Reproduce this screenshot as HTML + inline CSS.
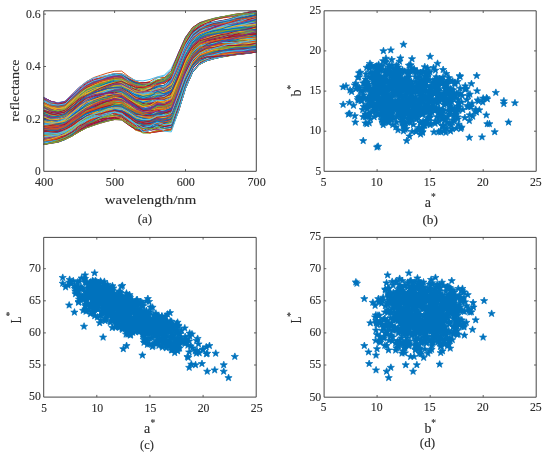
<!DOCTYPE html>
<html lang="en"><head><meta charset="utf-8"><title>Figure</title>
<style>html,body{margin:0;padding:0;background:#fff}svg{display:block}</style></head>
<body>
<svg width="550" height="456" viewBox="0 0 550 456" font-family='"Liberation Serif", "DejaVu Serif", serif' fill="#2b2b2b" stroke="#2b2b2b" stroke-width="0.12">
<rect width="550" height="456" fill="#fff" stroke="none"/>
<g fill="none" stroke-width="1" stroke-linejoin="round">
<path stroke="#0072BD" d="M43.8 108.6l7.1 3.4l7.1 1.8l7-0.5l7.1-4.8l7.1-5.3l7.1-2.1l7.1-3.3l7.1-1.6l7.1-0.6l7-0.7l7.1 1.2l7.1 5.9l7.1 5.8l7.1 3.7l7 0.8l7.1-1.2l7.1 0.2l7.1-2l7.1-16.4l7.1-20.4l7.1-13.4l7-6.4l7.1-2.6l7.1-1.9l7.1-1.6l7.1-1.8l7-0.8l7.1-0.7l7.1-1.4l7.1-1"/>
<path stroke="#D95319" d="M43.8 136.7l7.1-0.3l7.1-1.5l7-2.8l7.1-3.6l7.1-4.6l7.1-4.6l7.1-3.1l7.1-2.3l7.1-1.8l7-1.2l7.1-0.4l7.1 6.1l7.1 4.8l7.1 1l7 1.2l7.1 0.2l7.1-2.9l7.1-2.4l7.1-17.1l7.1-21l7.1-14.4l7-6.4l7.1-3.2l7.1-1.2l7.1-1.4l7.1-0.6l7-1.8l7.1-0.4l7.1-0.9l7.1 0.4"/>
<path stroke="#EDB120" d="M43.8 128.7l7.1 0.3l7.1-1.7l7-3.4l7.1-7.1l7.1-7.4l7.1-6.1l7.1-5.4l7.1-2.6l7.1-5.3l7-3.5l7.1-1l7.1 2.3l7.1 1.5l7.1-0.3l7-2.6l7.1-3.5l7.1-3.5l7.1-6.2l7.1-17.7l7.1-17l7.1-10.6l7-5.2l7.1-2.5l7.1-1.7l7.1-1.4l7.1-1.3l7-1.3l7.1-0.7l7.1-1.2l7.1-1.5"/>
<path stroke="#7E2F8E" d="M43.8 144.5l7.1-1.2l7.1-1.2l7-2.7l7.1-4.2l7.1-3.7l7.1-3.9l7.1-2.6l7.1-2.7l7.1-2.8l7-2l7.1-0.5l7.1 4.6l7.1 4.4l7.1 1.7l7-0.2l7.1-2.6l7.1-2.4l7.1-3.2l7.1-18.8l7.1-22.5l7.1-15.7l7-8.2l7.1-4.7l7.1-2.2l7.1-2.5l7.1-1.3l7-2.1l7.1-1.7l7.1-2.7l7.1-2.2"/>
<path stroke="#77AC30" d="M43.8 123.4l7.1 0.2l7.1 0l7-1.5l7.1-5.6l7.1-5.5l7.1-5.3l7.1-5.2l7.1-1.9l7.1-3l7-2.1l7.1-1l7.1 5.1l7.1 3.6l7.1-0.2l7 0.9l7.1-1.2l7.1-3.1l7.1-5.2l7.1-16.7l7.1-18.1l7.1-12.2l7-6.3l7.1-2.4l7.1-2.1l7.1-1.2l7.1-3l7-0.1l7.1-0.7l7.1-1.4l7.1 0"/>
<path stroke="#4DBEEE" d="M43.8 122.7l7.1 1.5l7.1 0.5l7-1.8l7.1-3.8l7.1-4.7l7.1-4.3l7.1-2.6l7.1 0l7.1-2.3l7-1.1l7.1 1.3l7.1 4.4l7.1 5.9l7.1 3.6l7-1.3l7.1-1.8l7.1 1.4l7.1-0.1l7.1-20l7.1-20.9l7.1-14.1l7-5.8l7.1-3.1l7.1-1.1l7.1-2.2l7.1-0.5l7-1.1l7.1-0.8l7.1-0.6l7.1-1.9"/>
<path stroke="#A2142F" d="M43.8 121.4l7.1 2.3l7.1-0.7l7-0.3l7.1-4.9l7.1-4.8l7.1-4.5l7.1-2.9l7.1-1.6l7.1-2.3l7-1.3l7.1 0.7l7.1 5.5l7.1 4.8l7.1 3.4l7-0.3l7.1-1l7.1 0.2l7.1-0.7l7.1-17.8l7.1-21l7.1-13.1l7-6.8l7.1-2l7.1-1.8l7.1 0l7.1-1.4l7-0.1l7.1-0.1l7.1 0.6l7.1-1.7"/>
<path stroke="#0072BD" d="M43.8 124.3l7.1 0.7l7.1-0.6l7-1.8l7.1-5.9l7.1-5.2l7.1-6.1l7.1-2.2l7.1-2.5l7.1-3.2l7-1.2l7.1-0.2l7.1 5.2l7.1 4.2l7.1 4.7l7-1.5l7.1-4.1l7.1 0.8l7.1-1.9l7.1-20l7.1-20.6l7.1-13.1l7-7.1l7.1-3.2l7.1-1.5l7.1-3.9l7.1-1.5l7-1.9l7.1-1.7l7.1-1.2l7.1-1.3"/>
<path stroke="#D95319" d="M43.8 129.8l7.1 1.3l7.1-0.6l7-2l7.1-3.2l7.1-5.7l7.1-3.8l7.1-3.6l7.1-2.5l7.1-1.3l7-2l7.1 0.7l7.1 4.4l7.1 4.4l7.1 1.7l7 1.6l7.1 0.3l7.1-2.1l7.1-2.4l7.1-17.2l7.1-21.4l7.1-14.8l7-7.5l7.1-2.8l7.1-1.8l7.1-1.6l7.1-1.2l7-0.6l7.1-1.4l7.1-1.4l7.1-0.3"/>
<path stroke="#EDB120" d="M43.8 129l7.1 0l7.1 0.1l7-1.6l7.1-3.8l7.1-3.9l7.1-4.7l7.1-2.9l7.1-2l7.1-1.4l7-1.7l7.1 0.2l7.1 5.2l7.1 5.3l7.1 4.9l7-1.5l7.1-4.7l7.1 0.7l7.1-0.5l7.1-19.3l7.1-21.4l7.1-14.6l7-6.4l7.1-3.1l7.1-2.4l7.1-0.9l7.1-0.8l7-1.6l7.1-0.8l7.1-0.5l7.1-1.4"/>
<path stroke="#7E2F8E" d="M43.8 120.1l7.1 1.7l7.1 0.1l7-1.9l7.1-5.4l7.1-5.9l7.1-4.9l7.1-3.3l7.1-2.6l7.1-1.1l7-2.3l7.1 0.9l7.1 4.4l7.1 3.7l7.1 0.4l7 0.9l7.1-0.2l7.1-1.8l7.1-3.9l7.1-17l7.1-19.9l7.1-14l7-5.8l7.1-2.7l7.1-2.2l7.1-1.1l7.1-1.2l7-1.8l7.1-0.9l7.1-1.1l7.1-1.2"/>
<path stroke="#77AC30" d="M43.8 134.7l7.1-1.4l7.1-1l7-2.5l7.1-5.5l7.1-5.2l7.1-4.7l7.1-3.5l7.1-3l7.1-2l7-0.6l7.1 0.3l7.1 5.2l7.1 4.8l7.1 2.2l7 0.1l7.1-1.5l7.1-0.9l7.1-2.2l7.1-16.9l7.1-21.6l7.1-14.9l7-6.7l7.1-3.7l7.1-2.4l7.1-2l7.1-0.6l7-1.2l7.1-1.2l7.1-1.3l7.1-1.7"/>
<path stroke="#4DBEEE" d="M43.8 122.1l7.1 0.8l7.1-1.3l7-1.9l7.1-5.7l7.1-6.2l7.1-6l7.1-3.4l7.1-3.6l7.1-3.5l7-2.6l7.1-1.3l7.1 3.4l7.1 3.8l7.1-0.4l7-2.8l7.1-4.7l7.1-1.1l7.1-5.7l7.1-19.3l7.1-18.2l7.1-11.2l7-6l7.1-3.8l7.1-2.8l7.1-1.7l7.1-0.9l7-1.2l7.1-1l7.1-1.2l7.1-1.2"/>
<path stroke="#A2142F" d="M43.8 124.1l7.1 0.5l7.1-0.1l7-1.8l7.1-4.9l7.1-5.2l7.1-6.6l7.1-3.8l7.1-3.7l7.1-2.3l7-2.9l7.1-1.1l7.1 3.8l7.1 2.2l7.1 0.1l7-2.1l7.1-2.3l7.1-3.3l7.1-6.9l7.1-17.8l7.1-18.7l7.1-11.4l7-5.6l7.1-3.9l7.1-2.1l7.1-2l7.1-2l7-3l7.1-1.8l7.1-1.6l7.1-2"/>
<path stroke="#0072BD" d="M43.8 134.8l7.1-0.5l7.1-0.4l7-3.2l7.1-5.2l7.1-4.5l7.1-5.1l7.1-3.2l7.1-2.6l7.1-1.9l7-1.8l7.1 0.6l7.1 5.7l7.1 4.6l7.1 2l7 0l7.1-1l7.1 1.4l7.1-2.5l7.1-15.7l7.1-21.2l7.1-13.8l7-7.9l7.1-2.7l7.1-0.8l7.1-1.2l7.1-1.4l7 0l7.1 0l7.1-1.3l7.1-0.8"/>
<path stroke="#D95319" d="M43.8 125.5l7.1 1.1l7.1 0l7-2.1l7.1-5l7.1-6l7.1-4.3l7.1-3l7.1-1.4l7.1-1.5l7-2.1l7.1-0.9l7.1 4.6l7.1 5.2l7.1 1.5l7-0.2l7.1-2.5l7.1-1.2l7.1-2.1l7.1-18.2l7.1-21.2l7.1-14.1l7-7.1l7.1-3.1l7.1-2.8l7.1-2.7l7.1-2.2l7-1.7l7.1-1.2l7.1-2.2l7.1-1.3"/>
<path stroke="#EDB120" d="M43.8 98.3l7.1 3.8l7.1 2.4l7-1.3l7.1-6.2l7.1-7.2l7.1-5.2l7.1-3.1l7.1-2.7l7.1-2.8l7-1.6l7.1 0.6l7.1 3.7l7.1 4l7.1 2.6l7-0.7l7.1-1.1l7.1-0.8l7.1-4.1l7.1-14.8l7.1-15.7l7.1-10.7l7-5l7.1-2.9l7.1-1.9l7.1 0.2l7.1-1.5l7-1.3l7.1-1.3l7.1-0.8l7.1-0.8"/>
<path stroke="#7E2F8E" d="M43.8 123.6l7.1 1.1l7.1 0l7-2.6l7.1-4.3l7.1-4.8l7.1-5.1l7.1-3.1l7.1-1.6l7.1-1.8l7-1.5l7.1-0.5l7.1 5.2l7.1 4.1l7.1 2.8l7-0.4l7.1-1.9l7.1-0.1l7.1-2.5l7.1-17.1l7.1-19.5l7.1-12.4l7-6.8l7.1-2.8l7.1-1.7l7.1-1.5l7.1-0.6l7-0.9l7.1-0.8l7.1-0.6l7.1-0.6"/>
<path stroke="#77AC30" d="M43.8 130.6l7.1 0.4l7.1-1.1l7-2.6l7.1-4.5l7.1-5.3l7.1-4.9l7.1-3.1l7.1-3.1l7.1-3.2l7-1.4l7.1-1.4l7.1 6.1l7.1 3.2l7.1 1.7l7-1.2l7.1-1.5l7.1-2.9l7.1-3.4l7.1-16.8l7.1-20.5l7.1-14.2l7-6.7l7.1-4.2l7.1-2.2l7.1-2.5l7.1-1.9l7-1l7.1-1.5l7.1-1.5l7.1-1.5"/>
<path stroke="#4DBEEE" d="M43.8 130.5l7.1 0.2l7.1-1l7-1.7l7.1-5l7.1-4.9l7.1-4.8l7.1-2.8l7.1-3.9l7.1-2.1l7-2.2l7.1-0.4l7.1 3.7l7.1 4l7.1-0.3l7 1l7.1-0.8l7.1-1.8l7.1-4.4l7.1-15.5l7.1-20.9l7.1-13.7l7-6.3l7.1-3.5l7.1-1.1l7.1-1.3l7.1-1.5l7-0.1l7.1-0.4l7.1-1.1l7.1-0.9"/>
<path stroke="#A2142F" d="M43.8 98.7l7.1 3.4l7.1 3.3l7-2.3l7.1-5.9l7.1-5.7l7.1-5.8l7.1-2.3l7.1-3.5l7.1-2.2l7-1.4l7.1 0.7l7.1 3.3l7.1 6l7.1 3.1l7 0l7.1-2.4l7.1 0.8l7.1-4l7.1-16.9l7.1-16.5l7.1-10.8l7-5.5l7.1-2l7.1-1.7l7.1-0.9l7.1-0.6l7-1.3l7.1 0l7.1-0.5l7.1 0.1"/>
<path stroke="#0072BD" d="M43.8 117l7.1 2.3l7.1 0l7-1.3l7.1-5.7l7.1-5.5l7.1-5.6l7.1-2.6l7.1-2.9l7.1-2.3l7-1.5l7.1-0.2l7.1 4.9l7.1 4.7l7.1 1.7l7-0.3l7.1-2.7l7.1 0.7l7.1-3.3l7.1-15.9l7.1-19.4l7.1-12.6l7-6.3l7.1-2.4l7.1-2.8l7.1-1.3l7.1-1l7 0l7.1-2l7.1 0.2l7.1-1.4"/>
<path stroke="#D95319" d="M43.8 108.9l7.1 2.5l7.1 0.9l7-1.7l7.1-5.5l7.1-7.6l7.1-5.4l7.1-2.8l7.1-2l7.1-1.3l7-1.3l7.1 1.2l7.1 4.9l7.1 5.5l7.1 1.8l7 0.3l7.1-1l7.1-0.5l7.1-3.8l7.1-16.5l7.1-18.2l7.1-11.9l7-6.7l7.1-2.6l7.1-2.1l7.1-1.3l7.1-1.5l7-1l7.1-0.5l7.1-1.5l7.1-0.1"/>
<path stroke="#EDB120" d="M43.8 118.2l7.1 1.8l7.1 0.4l7-2.7l7.1-4.2l7.1-6.1l7.1-6.2l7.1-3.2l7.1-2.7l7.1-2.3l7-2.5l7.1-0.9l7.1 3.7l7.1 4.7l7.1 1.6l7-1.2l7.1-3.9l7.1-1.6l7.1-4l7.1-18.8l7.1-18.1l7.1-12.4l7-5.4l7.1-2.4l7.1-0.9l7.1-1.3l7.1-0.9l7 0l7.1-0.6l7.1-0.6l7.1-0.2"/>
<path stroke="#7E2F8E" d="M43.8 97.4l7.1 4.1l7.1 1.4l7-1.5l7.1-7l7.1-7.2l7.1-5l7.1-3.1l7.1-0.7l7.1-0.9l7-0.6l7.1 0.6l7.1 5.8l7.1 5.5l7.1 3.7l7-0.9l7.1-3.5l7.1 2.1l7.1-2.9l7.1-17.6l7.1-16.9l7.1-11.1l7-4.7l7.1-3.5l7.1-2.9l7.1-1l7.1-1.6l7-1l7.1-1.8l7.1-1.1l7.1-1.7"/>
<path stroke="#77AC30" d="M43.8 99.8l7.1 3.4l7.1 1.6l7-0.7l7.1-5.8l7.1-6.4l7.1-6.3l7.1-3.4l7.1-2.2l7.1-2.1l7-1.8l7.1 0.5l7.1 4.6l7.1 4l7.1 2.1l7-1.5l7.1-3.1l7.1-1.8l7.1-4.5l7.1-16.9l7.1-17.2l7.1-10.1l7-4.6l7.1-2.6l7.1-1.5l7.1-1.6l7.1-1.8l7-0.9l7.1-1.6l7.1-1.9l7.1 0.3"/>
<path stroke="#4DBEEE" d="M43.8 108.1l7.1 3.6l7.1 0.5l7-1.1l7.1-5.5l7.1-5.8l7.1-4l7.1-2.9l7.1-1.9l7.1-0.8l7-0.5l7.1 1.9l7.1 5l7.1 4.4l7.1 5.6l7-2.2l7.1-3l7.1 3.1l7.1-0.5l7.1-18.1l7.1-20.6l7.1-13.4l7-5.2l7.1-2.8l7.1-1l7.1-1.7l7.1-0.6l7-0.3l7.1-0.5l7.1 0.1l7.1-0.5"/>
<path stroke="#A2142F" d="M43.8 126.6l7.1 0.1l7.1 0.1l7-1.8l7.1-4.9l7.1-5.4l7.1-5.3l7.1-3.2l7.1-2.8l7.1-2.7l7-1.7l7.1-0.9l7.1 3.3l7.1 4.6l7.1 1.5l7-0.4l7.1-3.1l7.1-1.3l7.1-4l7.1-17.8l7.1-19.1l7.1-13.4l7-6.2l7.1-3.3l7.1-1.8l7.1-2l7.1-1.1l7-1.4l7.1-1.7l7.1-1.4l7.1-1.1"/>
<path stroke="#0072BD" d="M43.8 119.4l7.1 1l7.1 0l7-2.7l7.1-5.3l7.1-5.5l7.1-5.5l7.1-2.4l7.1-3.2l7.1-0.8l7-2.6l7.1 0.3l7.1 3.6l7.1 5.2l7.1 1.7l7-0.1l7.1-1.9l7.1-0.7l7.1-2.4l7.1-17.1l7.1-19.6l7.1-13l7-5.5l7.1-2.6l7.1-2.6l7.1-0.5l7.1-2.4l7-0.7l7.1-2l7.1-0.9l7.1-1.1"/>
<path stroke="#D95319" d="M43.8 144.1l7.1-1l7.1-0.8l7-2.9l7.1-3.7l7.1-3.9l7.1-4.2l7.1-5.4l7.1-4.5l7.1-3.7l7-3.3l7.1-1.3l7.1 2.7l7.1 4l7.1 0.6l7-2.5l7.1-4.7l7.1-2.2l7.1-4.7l7.1-19.2l7.1-21.5l7.1-13.6l7-8.2l7.1-3.4l7.1-2.8l7.1-3l7.1-3l7-1.3l7.1-3l7.1-1.5l7.1-2.7"/>
<path stroke="#EDB120" d="M43.8 134.7l7.1-1.5l7.1-0.6l7-3.6l7.1-4.2l7.1-6.2l7.1-5l7.1-4l7.1-3.8l7.1-4l7-3l7.1-0.9l7.1 3.3l7.1 2.5l7.1 0.4l7-1.5l7.1-1.9l7.1-1.9l7.1-5.7l7.1-17.8l7.1-19.1l7.1-12.7l7-7l7.1-2.7l7.1-2.2l7.1-1.3l7.1-2.6l7-1.3l7.1-0.7l7.1-1.4l7.1-2.9"/>
<path stroke="#7E2F8E" d="M43.8 124.7l7.1 2.7l7.1 0.9l7-0.7l7.1-3.9l7.1-4.2l7.1-2.8l7.1-1.7l7.1-1.1l7.1-1.7l7-0.8l7.1 0.9l7.1 6.4l7.1 6.9l7.1 1.8l7 2.7l7.1-0.5l7.1-1l7.1-1.2l7.1-18.4l7.1-22.2l7.1-15.7l7-7.8l7.1-3.3l7.1-2l7.1-1.9l7.1-1.7l7-2.1l7.1-1.2l7.1-1.7l7.1-1.9"/>
<path stroke="#77AC30" d="M43.8 139.7l7.1-0.7l7.1-0.6l7-2l7.1-3.8l7.1-4.9l7.1-4.3l7.1-3.8l7.1-2.9l7.1-2.7l7-2.1l7.1 0.2l7.1 4.4l7.1 4.1l7.1 1.9l7-0.9l7.1-3.2l7.1 0.4l7.1-1.2l7.1-18.8l7.1-22.2l7.1-15.4l7-8.3l7.1-3.6l7.1-2.2l7.1-2.5l7.1-2.1l7-2.2l7.1-1.4l7.1-1.6l7.1-1.1"/>
<path stroke="#4DBEEE" d="M43.8 136.5l7.1-0.3l7.1-1.5l7-2.7l7.1-3.6l7.1-5.4l7.1-4.2l7.1-4l7.1-2.2l7.1-2.6l7-2l7.1 0.6l7.1 3.8l7.1 4.5l7.1 1.8l7-0.6l7.1-1.2l7.1-1.2l7.1-3.1l7.1-17.3l7.1-21.6l7.1-15.2l7-7l7.1-3l7.1-2.6l7.1-1.8l7.1-1.7l7-1.2l7.1-1.4l7.1-1.5l7.1-1.2"/>
<path stroke="#A2142F" d="M43.8 110.7l7.1 2.4l7.1 1.1l7-1.6l7.1-4.7l7.1-5.1l7.1-4.1l7.1-3.4l7.1-1.1l7.1-1.4l7-0.8l7.1 0.6l7.1 5l7.1 4.2l7.1 1.9l7 0.7l7.1-2.5l7.1-0.6l7.1-5.1l7.1-17.3l7.1-19l7.1-14.2l7-6.1l7.1-3.7l7.1-3.2l7.1-1.2l7.1-2.9l7-1.8l7.1-1.3l7.1-2.5l7.1-1.3"/>
<path stroke="#0072BD" d="M43.8 119.1l7.1 0.9l7.1-0.2l7-1.6l7.1-6.6l7.1-6l7.1-4.2l7.1-4.3l7.1-2.7l7.1-1.7l7-2.7l7.1 0l7.1 4.3l7.1 3.1l7.1 0.5l7-1.6l7.1-3.2l7.1-2.5l7.1-5.2l7.1-16.3l7.1-19.3l7.1-11.1l7-6.2l7.1-2.9l7.1-2.1l7.1-2.9l7.1-1.5l7-2.6l7.1-1.4l7.1-2.1l7.1-2"/>
<path stroke="#D95319" d="M43.8 103l7.1 3.9l7.1 0.3l7-1.3l7.1-5.8l7.1-7l7.1-4.4l7.1-3.4l7.1-2.8l7.1-2.3l7-1.7l7.1 1.1l7.1 5.7l7.1 4.7l7.1 1.9l7-1.5l7.1-2.7l7.1-0.1l7.1-3.6l7.1-17.5l7.1-16.8l7.1-11.6l7-6.3l7.1-2.5l7.1-1.7l7.1-1.3l7.1-2.4l7-1.7l7.1-3l7.1-1.7l7.1-2.4"/>
<path stroke="#EDB120" d="M43.8 100.9l7.1 5.4l7.1 1.6l7-0.5l7.1-5.9l7.1-6.2l7.1-4.9l7.1-0.5l7.1-1.6l7.1-1.1l7-0.7l7.1 1.1l7.1 5.8l7.1 5l7.1 3.1l7-0.1l7.1-1l7.1-1.2l7.1-1.7l7.1-17.9l7.1-19.1l7.1-12l7-6.1l7.1-2.5l7.1-2.2l7.1-1.9l7.1-1.5l7-1.9l7.1-1l7.1-1.4l7.1-1.2"/>
<path stroke="#7E2F8E" d="M43.8 114.4l7.1 2.8l7.1 0.4l7-1l7.1-5.1l7.1-6.5l7.1-5l7.1-2.9l7.1-2.7l7.1-2l7-2.2l7.1 1l7.1 4.5l7.1 4.8l7.1 2.5l7-0.8l7.1-2.4l7.1 0.6l7.1-3.5l7.1-17.4l7.1-18.9l7.1-12.3l7-5.7l7.1-3.4l7.1-1.3l7.1-1.1l7.1-0.4l7-0.7l7.1-1l7.1-1.4l7.1-0.3"/>
<path stroke="#77AC30" d="M43.8 128l7.1 0.3l7.1-0.7l7-2.6l7.1-5.3l7.1-6.2l7.1-5.8l7.1-4l7.1-3.5l7.1-3.6l7-3.2l7.1-0.4l7.1 3.2l7.1 2.8l7.1 0.9l7-2.3l7.1-2.7l7.1-1l7.1-3.8l7.1-17l7.1-18.3l7.1-11.1l7-6l7.1-2.4l7.1-1.9l7.1-0.1l7.1 0.2l7 0l7.1-1.2l7.1 0.3l7.1-0.6"/>
<path stroke="#4DBEEE" d="M43.8 143.1l7.1-1.3l7.1-1.2l7-3.3l7.1-4.2l7.1-4.9l7.1-4.9l7.1-3.1l7.1-4.3l7.1-2.5l7-2.1l7.1-0.3l7.1 3.4l7.1 4.3l7.1 1.5l7-0.7l7.1-3.2l7.1-1.6l7.1-2.5l7.1-19l7.1-21.5l7.1-15.3l7-8.1l7.1-4l7.1-2.7l7.1-2l7.1-2.1l7-1.3l7.1-1.8l7.1-0.8l7.1-1.3"/>
<path stroke="#A2142F" d="M43.8 113.2l7.1 2.4l7.1 2.3l7-0.2l7.1-4.9l7.1-4.9l7.1-4l7.1-3.2l7.1-1.3l7.1-1.5l7-2.2l7.1 0.9l7.1 4.4l7.1 4.9l7.1 3.1l7-1.4l7.1-2.9l7.1 0.6l7.1-2.7l7.1-17.9l7.1-19.4l7.1-12.2l7-6l7.1-2.6l7.1-1.9l7.1-1.2l7.1-0.7l7-0.7l7.1-0.9l7.1 0.9l7.1 0"/>
<path stroke="#0072BD" d="M43.8 112.2l7.1 2.4l7.1 0.2l7-2.6l7.1-5.3l7.1-5.7l7.1-5l7.1-4.2l7.1-1.5l7.1-2.5l7-2.1l7.1 0.1l7.1 5.3l7.1 4.6l7.1 1.9l7-0.1l7.1-2.7l7.1-0.4l7.1-3.2l7.1-18.1l7.1-19l7.1-11.1l7-5.9l7.1-2.7l7.1-1.4l7.1-1.4l7.1-1.4l7-2.5l7.1-1.1l7.1-1.6l7.1-1"/>
<path stroke="#D95319" d="M43.8 114l7.1 2.3l7.1 0.5l7-3.5l7.1-6.1l7.1-5.6l7.1-6.4l7.1-2.7l7.1-3.9l7.1-2.6l7-2.5l7.1 0.6l7.1 3.2l7.1 3.8l7.1 3.8l7-1.2l7.1-4.2l7.1 1l7.1-3.2l7.1-18.4l7.1-17.6l7.1-11.3l7-5l7.1-1.8l7.1-1.3l7.1-1.2l7.1-0.7l7-0.6l7.1-0.6l7.1-0.7l7.1-0.6"/>
<path stroke="#EDB120" d="M43.8 112.3l7.1 2.1l7.1 0l7-1.4l7.1-5.5l7.1-5.9l7.1-5.3l7.1-1.9l7.1-2.9l7.1-1.7l7-0.9l7.1 1l7.1 6.2l7.1 4.8l7.1 2.4l7 0.5l7.1-0.8l7.1-0.8l7.1-1.9l7.1-16.2l7.1-19.4l7.1-13.6l7-6l7.1-3.6l7.1-1.6l7.1-1.5l7.1-2.4l7-1.7l7.1-1.2l7.1-0.6l7.1-1.4"/>
<path stroke="#7E2F8E" d="M43.8 135.5l7.1-1.4l7.1-0.1l7-2.3l7.1-4.9l7.1-4.8l7.1-5.1l7.1-2.5l7.1-3.7l7.1-1.5l7-2.7l7.1 0.1l7.1 3.6l7.1 4.9l7.1 2.4l7-0.7l7.1-5.5l7.1 1.4l7.1-1.3l7.1-19.7l7.1-20.3l7.1-14.2l7-7l7.1-3.4l7.1-2.1l7.1-1.9l7.1-1l7-1.9l7.1-0.6l7.1-0.7l7.1-2.3"/>
<path stroke="#77AC30" d="M43.8 119.4l7.1 2.2l7.1 1.5l7-1.8l7.1-4.6l7.1-4.2l7.1-2.9l7.1-2.3l7.1-2.4l7.1-1.4l7-1.4l7.1 0l7.1 4.2l7.1 5.3l7.1 2.6l7 0l7.1-3.7l7.1-0.3l7.1-2.4l7.1-20.2l7.1-19.3l7.1-14.5l7-7l7.1-3.3l7.1-2.4l7.1-1.1l7.1-1.1l7-0.6l7.1-0.5l7.1-0.8l7.1 0.1"/>
<path stroke="#4DBEEE" d="M43.8 114.7l7.1 1.8l7.1 0.9l7-0.9l7.1-5l7.1-6l7.1-5.2l7.1-3.3l7.1-3.5l7.1-0.8l7-2.6l7.1 0.2l7.1 4.9l7.1 4.1l7.1 3.1l7-2.1l7.1-3.8l7.1 1.8l7.1-1.2l7.1-18.6l7.1-19.4l7.1-12.3l7-5.7l7.1-1.9l7.1-2.2l7.1-0.4l7.1-1.7l7-1.5l7.1-1.1l7.1-0.7l7.1-0.9"/>
<path stroke="#A2142F" d="M43.8 100.9l7.1 3l7.1 1.3l7-1.7l7.1-7.7l7.1-7.3l7.1-5.3l7.1-3l7.1-2.6l7.1-1.1l7-2l7.1 0l7.1 4.1l7.1 4l7.1 2.1l7-0.2l7.1-1.6l7.1-2.2l7.1-6.5l7.1-15.9l7.1-16l7.1-10.3l7-4.4l7.1-2.5l7.1-1.2l7.1-2l7.1-0.8l7-1.9l7.1-0.7l7.1-2.3l7.1-0.7"/>
<path stroke="#0072BD" d="M43.8 98.8l7.1 4.1l7.1 1.8l7-0.6l7.1-5.9l7.1-5.9l7.1-4.8l7.1-1.7l7.1-1.3l7.1-2.3l7-0.6l7.1 1.4l7.1 4.3l7.1 4.1l7.1 2.2l7 2.1l7.1-1.1l7.1-0.3l7.1-3.1l7.1-15l7.1-18.7l7.1-11.2l7-5.9l7.1-2.3l7.1-2.2l7.1-0.9l7.1-0.9l7-1.1l7.1-0.6l7.1 0.1l7.1-0.8"/>
<path stroke="#D95319" d="M43.8 122.3l7.1 2l7.1 0.3l7-2.4l7.1-4.1l7.1-4.7l7.1-5.2l7.1-2.6l7.1-1.7l7.1-2.6l7-1.4l7.1 1.2l7.1 4.2l7.1 4.8l7.1 1.6l7-0.6l7.1-3.3l7.1-0.5l7.1-3.4l7.1-19.2l7.1-20.9l7.1-14.6l7-7l7.1-3.4l7.1-4.7l7.1-2.9l7.1-2.3l7-2.3l7.1-2.4l7.1-2.6l7.1-2.5"/>
<path stroke="#EDB120" d="M43.8 127.4l7.1 1.4l7.1-0.2l7-1.1l7.1-3.8l7.1-4.9l7.1-4.3l7.1-2.7l7.1-2.7l7.1-1.4l7-1l7.1-0.1l7.1 4.1l7.1 5.4l7.1 2.3l7 0.8l7.1-1.8l7.1-0.6l7.1-2.5l7.1-17.8l7.1-21.9l7.1-14.3l7-6.7l7.1-2.2l7.1-2.3l7.1-1.8l7.1-1l7-0.2l7.1-1.3l7.1-0.8l7.1-0.8"/>
<path stroke="#7E2F8E" d="M43.8 117l7.1 1.8l7.1 1.7l7-1.8l7.1-5.7l7.1-5l7.1-4l7.1-4l7.1-3.1l7.1-1.9l7-1.9l7.1-0.9l7.1 3.5l7.1 3.3l7.1 1.8l7-1l7.1-2.8l7.1-1.9l7.1-5.3l7.1-17.7l7.1-17.1l7.1-11.3l7-6.6l7.1-2.8l7.1-1.2l7.1-1.7l7.1-0.7l7-1.6l7.1-0.1l7.1-0.3l7.1-0.5"/>
<path stroke="#77AC30" d="M43.8 115.8l7.1 2.6l7.1 0.2l7-3l7.1-7l7.1-6.8l7.1-5.3l7.1-4.4l7.1-3.8l7.1-2.2l7-1.8l7.1-0.5l7.1 4.2l7.1 4.7l7.1 2.9l7-1l7.1-3l7.1-1.2l7.1-4.9l7.1-17.4l7.1-18.9l7.1-13.1l7-6.1l7.1-2.7l7.1-2.4l7.1-2.2l7.1-1.5l7-2l7.1-2.2l7.1-0.9l7.1-0.8"/>
<path stroke="#4DBEEE" d="M43.8 130.1l7.1 1.3l7.1-0.3l7-2.1l7.1-4.5l7.1-4.8l7.1-3.4l7.1-1.4l7.1-1.7l7.1-0.6l7-0.6l7.1 1.5l7.1 4.5l7.1 5.3l7.1 3.4l7 1.1l7.1-2l7.1 0.5l7.1 0.5l7.1-16.9l7.1-22l7.1-15.6l7-8.2l7.1-3.5l7.1-2.2l7.1-1.4l7.1-1.5l7-0.9l7.1-0.5l7.1-1.1l7.1-0.9"/>
<path stroke="#A2142F" d="M43.8 131.4l7.1 0.4l7.1 0.1l7-1.2l7.1-4.5l7.1-4.2l7.1-4.4l7.1-2.2l7.1-1.9l7.1-2.3l7-1.3l7.1 1.4l7.1 5.8l7.1 5.8l7.1 3.6l7-0.4l7.1-4.5l7.1 1.4l7.1-1.2l7.1-18.6l7.1-21.9l7.1-15.1l7-7.4l7.1-3.9l7.1-1.4l7.1-1.9l7.1-1.8l7-0.4l7.1-0.7l7.1-1l7.1-1"/>
<path stroke="#0072BD" d="M43.8 133.3l7.1-0.5l7.1-0.9l7-2.7l7.1-3.8l7.1-5.4l7.1-4.2l7.1-3.5l7.1-3.1l7.1-2.4l7-3.2l7.1-0.9l7.1 5.9l7.1 3.9l7.1 2.1l7-0.9l7.1-3.3l7.1-0.9l7.1-0.5l7.1-18.3l7.1-21.2l7.1-14.3l7-7.4l7.1-3.3l7.1-2.7l7.1-1.8l7.1-1.6l7-0.9l7.1-1.7l7.1-1.3l7.1-1.7"/>
<path stroke="#D95319" d="M43.8 112.2l7.1 2.1l7.1 0.7l7-1.3l7.1-6.4l7.1-5.5l7.1-5.8l7.1-3.6l7.1-2.1l7.1-1.9l7-1.1l7.1 0.9l7.1 4.8l7.1 4.1l7.1 1.9l7 0.5l7.1-2.5l7.1-0.7l7.1-2.3l7.1-17l7.1-18.9l7.1-12.4l7-6l7.1-2l7.1-1.8l7.1-0.6l7.1-1.2l7-0.9l7.1-0.7l7.1-0.5l7.1-0.9"/>
<path stroke="#EDB120" d="M43.8 125.4l7.1 0.9l7.1 1.1l7-1.4l7.1-3.9l7.1-4.6l7.1-4.1l7.1-2.4l7.1-2.4l7.1-1.6l7-1.2l7.1 1.2l7.1 4.3l7.1 6.1l7.1 0.9l7 0.8l7.1 0.5l7.1-2l7.1-2.7l7.1-15.6l7.1-22l7.1-14.2l7-6.3l7.1-2.8l7.1-0.8l7.1-0.3l7.1-0.8l7-0.7l7.1 0l7.1-0.9l7.1-0.4"/>
<path stroke="#7E2F8E" d="M43.8 127.1l7.1 0.5l7.1-0.2l7-2.2l7.1-5l7.1-5.5l7.1-4.7l7.1-3.2l7.1-2.3l7.1-2.3l7-2l7.1 0.4l7.1 3.5l7.1 5l7.1 0.8l7 1.5l7.1-1.1l7.1-2l7.1-3.7l7.1-17.2l7.1-20.4l7.1-11.9l7-7.7l7.1-1.7l7.1-2.7l7.1-2.7l7.1-1.2l7-1.5l7.1-0.4l7.1-1.3l7.1-1.1"/>
<path stroke="#77AC30" d="M43.8 119.1l7.1 3.1l7.1 1.5l7-0.7l7.1-4.6l7.1-4.4l7.1-4.2l7.1-1.9l7.1-1.7l7.1-1.9l7-1.4l7.1 0.6l7.1 5.9l7.1 4.9l7.1 4.5l7-1.6l7.1-4l7.1 0.7l7.1-0.7l7.1-19.9l7.1-21.3l7.1-14.5l7-6.9l7.1-4l7.1-2.8l7.1-1.8l7.1-1.2l7-1.1l7.1 0l7.1-1l7.1-1.3"/>
<path stroke="#4DBEEE" d="M43.8 144.1l7.1-0.8l7.1-1.4l7-2.6l7.1-3.8l7.1-5.3l7.1-3.9l7.1-4.3l7.1-3.5l7.1-3.2l7-2.8l7.1 0.6l7.1 3.6l7.1 4.5l7.1 1.3l7-1.2l7.1-2.6l7.1-1.8l7.1-1.3l7.1-20.2l7.1-22.3l7.1-15.2l7-7.2l7.1-4.6l7.1-1.9l7.1-2.4l7.1-2.1l7-2.2l7.1-1.4l7.1-0.9l7.1-2.5"/>
<path stroke="#A2142F" d="M43.8 117.4l7.1 1.7l7.1 0.6l7-2.5l7.1-5.5l7.1-5.7l7.1-5.6l7.1-2.7l7.1-2.4l7.1-2.2l7-2.2l7.1-0.9l7.1 4.5l7.1 4.3l7.1 0.2l7 1.3l7.1-0.7l7.1-2.3l7.1-3.3l7.1-17.7l7.1-18.9l7.1-12.1l7-6.3l7.1-2.8l7.1-2l7.1-2.3l7.1-1.9l7 0l7.1-0.7l7.1-1l7.1-1.2"/>
<path stroke="#0072BD" d="M43.8 136.2l7.1-1.3l7.1-1.1l7-2.9l7.1-5.5l7.1-7l7.1-5.8l7.1-3.1l7.1-4.2l7.1-4.5l7-2.7l7.1-2.6l7.1 3.8l7.1 1.7l7.1 0.9l7-1.5l7.1-1.8l7.1-1.8l7.1-4.6l7.1-19.3l7.1-17.9l7.1-12.9l7-7.3l7.1-2.7l7.1-2.5l7.1-2.8l7.1-0.9l7-1.9l7.1-1.7l7.1-1.6l7.1-1.2"/>
<path stroke="#D95319" d="M43.8 105.7l7.1 3l7.1 1.7l7-1l7.1-5.7l7.1-6.1l7.1-5.1l7.1-2.9l7.1-1.7l7.1-1.9l7-2.1l7.1 0.8l7.1 4l7.1 4.3l7.1 1.2l7-0.2l7.1-1.4l7.1-1.6l7.1-5.2l7.1-17.3l7.1-17.9l7.1-12.1l7-5.9l7.1-2.8l7.1-2.8l7.1-2.3l7.1-1.3l7-1.7l7.1-0.9l7.1-1.1l7.1-1.9"/>
<path stroke="#EDB120" d="M43.8 116.5l7.1 1.9l7.1-0.8l7-1.4l7.1-5.1l7.1-5.9l7.1-3.9l7.1-3.8l7.1-1.4l7.1-0.8l7-1.6l7.1 0l7.1 5.6l7.1 4.7l7.1 2.8l7-0.1l7.1-2.9l7.1-1.2l7.1-2.5l7.1-17.6l7.1-18.1l7.1-13.4l7-6.7l7.1-2.1l7.1-2.5l7.1-1.2l7.1-1.5l7-2.4l7.1-0.4l7.1-1.8l7.1-0.8"/>
<path stroke="#7E2F8E" d="M43.8 97.5l7.1 3.8l7.1 1.7l7-0.8l7.1-6.2l7.1-6.3l7.1-4.6l7.1-2.5l7.1-1.4l7.1-0.8l7-1.2l7.1 1.7l7.1 5.5l7.1 5.1l7.1 2.6l7 0.6l7.1 0.3l7.1-1.4l7.1-3.2l7.1-15.1l7.1-17.5l7.1-10.8l7-4.9l7.1-2l7.1-0.9l7.1 0.1l7.1-1.1l7 0.1l7.1 0.4l7.1 0l7.1-0.5"/>
<path stroke="#77AC30" d="M43.8 102.6l7.1 3.3l7.1 1.1l7-1.9l7.1-6.7l7.1-6.5l7.1-6.1l7.1-3.7l7.1-1.9l7.1-2.8l7-2.3l7.1 0.6l7.1 4.1l7.1 3.6l7.1 2.9l7-1.8l7.1-3.4l7.1-0.3l7.1-6.4l7.1-16.9l7.1-15.9l7.1-11.6l7-5.8l7.1-2.6l7.1-1.7l7.1-1.7l7.1-1.9l7-1.7l7.1-1.2l7.1-1.4l7.1-0.7"/>
<path stroke="#4DBEEE" d="M43.8 117l7.1 0.7l7.1 0l7-2.6l7.1-4.3l7.1-6l7.1-4.5l7.1-3l7.1-3.1l7.1-1.5l7-1l7.1-0.1l7.1 4.3l7.1 3.5l7.1 2.1l7-0.6l7.1-2.9l7.1-0.3l7.1-2.9l7.1-16.4l7.1-18.6l7.1-12.6l7-6.2l7.1-2.8l7.1-0.5l7.1-1.2l7.1-0.2l7-0.8l7.1-0.9l7.1 0.2l7.1 0"/>
<path stroke="#A2142F" d="M43.8 137.3l7.1-1.2l7.1-1.5l7-2.5l7.1-4.7l7.1-5.9l7.1-3.9l7.1-3.2l7.1-2.7l7.1-1.8l7-2l7.1 0.5l7.1 3.5l7.1 2.4l7.1 1.6l7-0.6l7.1-2.2l7.1-2.1l7.1-4l7.1-18.2l7.1-21.4l7.1-14l7-7.6l7.1-3.2l7.1-3l7.1-1.6l7.1-2.5l7-1.3l7.1-1.4l7.1-2l7.1-2"/>
<path stroke="#0072BD" d="M43.8 103.4l7.1 2.4l7.1 1.4l7-1.3l7.1-5.5l7.1-5.8l7.1-4.4l7.1-3.3l7.1-1.3l7.1-1.1l7-1.5l7.1 1.3l7.1 5.5l7.1 5.6l7.1 3l7 1.3l7.1-1.1l7.1-0.4l7.1-2.7l7.1-15.1l7.1-18.6l7.1-11.9l7-5.3l7.1-1.6l7.1-1l7.1-2l7.1-0.5l7-1l7.1-0.4l7.1-0.5l7.1-0.7"/>
<path stroke="#D95319" d="M43.8 112.5l7.1 2.1l7.1 0.7l7-2.4l7.1-5.4l7.1-6.2l7.1-5.4l7.1-1.9l7.1-2.2l7.1-1.4l7-1.5l7.1 0.4l7.1 4.8l7.1 4.7l7.1 1.2l7 0.9l7.1-0.8l7.1-2.1l7.1-4.1l7.1-15.2l7.1-18.4l7.1-12.4l7-5.8l7.1-1.4l7.1-0.9l7.1-2.2l7.1-1.7l7-0.5l7.1-0.9l7.1-0.8l7.1-1.5"/>
<path stroke="#EDB120" d="M43.8 123.1l7.1 0.3l7.1 0l7-3.1l7.1-5l7.1-5.9l7.1-5.2l7.1-2.8l7.1-3l7.1-2l7-1.1l7.1-1.2l7.1 5l7.1 3.2l7.1 2.2l7 0.3l7.1-1.6l7.1-0.8l7.1-3.2l7.1-17.7l7.1-19.9l7.1-12.2l7-6.8l7.1-2.4l7.1-1.7l7.1-3l7.1-1.6l7-1.7l7.1-2l7.1-1.1l7.1-1.9"/>
<path stroke="#7E2F8E" d="M43.8 103.4l7.1 2.5l7.1 2.8l7-1.3l7.1-7l7.1-6.5l7.1-4l7.1-4l7.1-3.4l7.1-2.2l7-3.9l7.1 0.1l7.1 4.6l7.1 4l7.1 1.3l7-0.8l7.1-3l7.1-0.2l7.1-4.7l7.1-17.3l7.1-15.7l7.1-10.5l7-5.7l7.1-2.9l7.1-1.5l7.1-1.9l7.1-1.2l7-1.2l7.1-1.2l7.1-2.1l7.1-1.2"/>
<path stroke="#77AC30" d="M43.8 105.9l7.1 3.3l7.1 2.1l7 0.1l7.1-4.2l7.1-4.7l7.1-4.5l7.1-2.2l7.1-1l7.1 0.8l7-0.6l7.1 2.5l7.1 5.6l7.1 6.6l7.1 3.7l7 2.1l7.1-0.4l7.1 1.9l7.1 0.5l7.1-15.4l7.1-19.8l7.1-14.5l7-6.2l7.1-2.2l7.1-1.2l7.1-1.6l7.1-1.1l7-1.2l7.1-0.6l7.1-0.8l7.1-1"/>
<path stroke="#4DBEEE" d="M43.8 105.6l7.1 3.2l7.1 1.5l7-1.4l7.1-5.5l7.1-5.3l7.1-4l7.1-1.1l7.1-1.1l7.1-1.7l7-1.1l7.1 1.6l7.1 6.6l7.1 4l7.1 3.2l7 1.3l7.1 0.3l7.1-0.4l7.1-3.8l7.1-15.5l7.1-20.2l7.1-12.7l7-6.3l7.1-2.9l7.1-2.1l7.1-1.1l7.1-1.2l7-0.1l7.1-0.7l7.1-0.9l7.1-1"/>
<path stroke="#A2142F" d="M43.8 124.9l7.1 0.2l7.1-0.9l7-1.7l7.1-5.5l7.1-4.9l7.1-4.7l7.1-3.8l7.1-1.8l7.1-2.6l7-1.1l7.1 0.3l7.1 5.1l7.1 4.8l7.1 5.1l7-1.6l7.1-3.4l7.1 2.1l7.1-0.1l7.1-17.8l7.1-20.2l7.1-12.7l7-6.5l7.1-2.5l7.1-1.5l7.1-2l7.1-1l7-0.2l7.1-1.3l7.1 0.3l7.1-0.5"/>
<path stroke="#0072BD" d="M43.8 120l7.1 1.6l7.1-0.3l7-1.5l7.1-5.9l7.1-6l7.1-5.6l7.1-3.6l7.1-3.1l7.1-2.5l7-1.6l7.1-1.2l7.1 4.2l7.1 3.4l7.1 1.1l7-1.7l7.1-2.2l7.1 0l7.1-4.9l7.1-18.1l7.1-17.8l7.1-12.5l7-5.9l7.1-3.1l7.1-1.6l7.1-2.1l7.1-0.8l7-0.8l7.1-0.9l7.1-0.9l7.1-0.5"/>
<path stroke="#D95319" d="M43.8 138.3l7.1-0.6l7.1-1l7-2.8l7.1-4.3l7.1-5.6l7.1-4.4l7.1-3l7.1-3.1l7.1-3.7l7-2.3l7.1 0.2l7.1 4l7.1 3.3l7.1 0.4l7-0.7l7.1-3.2l7.1-1.8l7.1-4.3l7.1-18.7l7.1-19.8l7.1-12.8l7-6.4l7.1-3.1l7.1-2.2l7.1-1.8l7.1-2l7-2.1l7.1-0.8l7.1-1.8l7.1-1.4"/>
<path stroke="#EDB120" d="M43.8 135.7l7.1-0.7l7.1-1.4l7-2.8l7.1-4.5l7.1-5.1l7.1-4l7.1-4.1l7.1-3.1l7.1-3l7-2.5l7.1-1.5l7.1 5.8l7.1 4.4l7.1 0.8l7-1.3l7.1-3.2l7.1-2l7.1-3.5l7.1-18.9l7.1-20.2l7.1-14.6l7-7l7.1-3.7l7.1-1.8l7.1-2l7.1-2l7-0.9l7.1-2.6l7.1-0.7l7.1-1.5"/>
<path stroke="#7E2F8E" d="M43.8 135l7.1-0.3l7.1 0l7-2.4l7.1-3.9l7.1-5.1l7.1-3.8l7.1-3.2l7.1-3.2l7.1-2.6l7-1.6l7.1-0.3l7.1 4.3l7.1 5.9l7.1 2.8l7-1.2l7.1-2.9l7.1 0.8l7.1-1.8l7.1-18.8l7.1-21.4l7.1-14.5l7-7.4l7.1-2.7l7.1-2.2l7.1-1.7l7.1-0.4l7-0.8l7.1-1l7.1-0.3l7.1-0.8"/>
<path stroke="#77AC30" d="M43.8 114l7.1 2.4l7.1 0.5l7-1.2l7.1-5.1l7.1-4.3l7.1-3.5l7.1-1.6l7.1-1.2l7.1-1.9l7-0.6l7.1 1.5l7.1 5.5l7.1 6.6l7.1 2.7l7 1.4l7.1-0.6l7.1-0.4l7.1-1l7.1-17.9l7.1-20l7.1-14.1l7-6.6l7.1-3.1l7.1-1.1l7.1-1.6l7.1-0.6l7-0.4l7.1 0.2l7.1-0.3l7.1-0.1"/>
<path stroke="#4DBEEE" d="M43.8 114.7l7.1 1.8l7.1 1.6l7-1.6l7.1-4.7l7.1-6.9l7.1-4.7l7.1-2.8l7.1-2.2l7.1-1.5l7-0.6l7.1 0.7l7.1 4.4l7.1 5.1l7.1 0.3l7 1.3l7.1-1.1l7.1-0.5l7.1-3.7l7.1-15.9l7.1-19.3l7.1-12.8l7-5.8l7.1-3.1l7.1-2.3l7.1-1.6l7.1-1.3l7-0.6l7.1-1.2l7.1-1.2l7.1-0.3"/>
<path stroke="#A2142F" d="M43.8 144.2l7.1-1.5l7.1-2.4l7-2.1l7.1-4.5l7.1-5.5l7.1-4.4l7.1-4.1l7.1-2.9l7.1-2.3l7-3l7.1 0.7l7.1 3.8l7.1 3.6l7.1 3.4l7-1.4l7.1-5.6l7.1 0.9l7.1-4.3l7.1-18.3l7.1-22.8l7.1-15.3l7-8.2l7.1-4l7.1-3l7.1-1.9l7.1-2.5l7-1.1l7.1-1.7l7.1-2.6l7.1-1.3"/>
<path stroke="#0072BD" d="M43.8 116.2l7.1 2.5l7.1-1.2l7-1.8l7.1-5.7l7.1-6.2l7.1-5.8l7.1-3l7.1-1.4l7.1-2.6l7-1.2l7.1 0.5l7.1 5.5l7.1 5.1l7.1 2.8l7 0.2l7.1-0.9l7.1 0.4l7.1-1.9l7.1-17.1l7.1-19.4l7.1-13.4l7-5l7.1-3.3l7.1-1.5l7.1-2.1l7.1-1.4l7-0.4l7.1-1l7.1-1.5l7.1-0.3"/>
<path stroke="#D95319" d="M43.8 101.3l7.1 3.5l7.1 0.8l7-1.8l7.1-6.7l7.1-6.4l7.1-5.9l7.1-3.5l7.1-3.3l7.1-2.5l7-2l7.1 0.7l7.1 5l7.1 3.2l7.1 3.5l7-1.1l7.1-1.3l7.1-1.5l7.1-4.8l7.1-16.4l7.1-16.5l7.1-11l7-5.8l7.1-2.3l7.1-2.4l7.1-1.6l7.1-1.7l7-0.7l7.1-1.5l7.1-1.7l7.1-0.6"/>
<path stroke="#EDB120" d="M43.8 116.8l7.1 2.1l7.1 0.4l7-1.4l7.1-6l7.1-5.4l7.1-5.1l7.1-2.5l7.1-1.9l7.1-2.9l7-1.9l7.1 0.3l7.1 5.1l7.1 3.7l7.1 2.7l7-2.2l7.1-3l7.1-0.6l7.1-2.6l7.1-19.3l7.1-19l7.1-12.9l7-6.8l7.1-3l7.1-2.6l7.1-1.6l7.1-1.9l7-0.9l7.1-0.7l7.1-1.8l7.1-0.9"/>
<path stroke="#7E2F8E" d="M43.8 119.1l7.1 0.4l7.1-0.7l7-1.8l7.1-7.3l7.1-6.3l7.1-5.6l7.1-4l7.1-1.8l7.1-2.2l7-1.8l7.1 0.2l7.1 4.8l7.1 5.5l7.1 2l7-0.3l7.1-0.8l7.1 0.5l7.1-1.4l7.1-16.2l7.1-18.6l7.1-12.2l7-5.6l7.1-2.4l7.1-1.5l7.1-0.8l7.1-0.1l7-0.5l7.1-1.4l7.1-1l7.1-1.3"/>
<path stroke="#77AC30" d="M43.8 128.2l7.1 0.4l7.1-0.6l7-2.6l7.1-5.7l7.1-5.3l7.1-4.9l7.1-2.1l7.1-2.5l7.1-2.1l7-1.7l7.1 1.6l7.1 5.8l7.1 6.4l7.1 2.1l7 1.9l7.1-1l7.1-0.5l7.1-1.4l7.1-16.1l7.1-21.5l7.1-15.4l7-5.5l7.1-2.6l7.1-1.5l7.1-1.2l7.1-1l7-0.8l7.1 0.3l7.1-0.6l7.1-1.7"/>
<path stroke="#4DBEEE" d="M43.8 124l7.1 0.9l7.1-1.1l7-1.8l7.1-5l7.1-5.2l7.1-3.4l7.1-2.7l7.1-0.8l7.1-1.9l7-0.5l7.1 0.8l7.1 6.8l7.1 6.1l7.1 4.4l7 0.8l7.1-2.4l7.1 2l7.1 0.1l7.1-18.8l7.1-21.7l7.1-14.5l7-7.2l7.1-3.6l7.1-1l7.1-2.5l7.1-1.4l7-1.1l7.1-1.7l7.1-1.5l7.1-1"/>
<path stroke="#A2142F" d="M43.8 104.2l7.1 4.6l7.1 1l7-1.1l7.1-5.2l7.1-6.1l7.1-5.4l7.1-2.4l7.1-1.2l7.1-1.6l7-2.1l7.1 0.5l7.1 5.6l7.1 3.8l7.1 3.1l7-1.3l7.1-1l7.1 0.5l7.1-3.9l7.1-16.3l7.1-18.2l7.1-10.9l7-6.3l7.1-1.7l7.1-0.9l7.1-0.3l7.1-1l7-0.2l7.1-0.5l7.1 0.2l7.1 0.5"/>
<path stroke="#0072BD" d="M43.8 104l7.1 3.6l7.1 1.8l7-1.8l7.1-5.6l7.1-5.1l7.1-5.3l7.1-3.3l7.1-1.5l7.1-2.6l7-1.9l7.1 0.4l7.1 4.2l7.1 3.2l7.1 0.3l7 0.8l7.1 0.1l7.1-1.6l7.1-4.5l7.1-16.4l7.1-16.9l7.1-10.9l7-5.8l7.1-0.6l7.1-2.6l7.1-2l7.1-1.8l7-0.5l7.1-0.4l7.1-0.4l7.1-1.1"/>
<path stroke="#D95319" d="M43.8 127.9l7.1 0.7l7.1-0.5l7-1.6l7.1-5l7.1-4.5l7.1-4.8l7.1-2.9l7.1-1.8l7.1-1.1l7-2.6l7.1-0.1l7.1 3.5l7.1 5.1l7.1 1.4l7-2.1l7.1-4.3l7.1-0.2l7.1-3.6l7.1-19.7l7.1-20.7l7.1-13.7l7-6.5l7.1-4.1l7.1-2.5l7.1-1.4l7.1-2.1l7-0.8l7.1-2.1l7.1-1.7l7.1-0.7"/>
<path stroke="#EDB120" d="M43.8 134.5l7.1-1l7.1-0.7l7-1.8l7.1-3.9l7.1-5.2l7.1-4.2l7.1-3.4l7.1-0.9l7.1-1.5l7-1.5l7.1 0.2l7.1 5.8l7.1 5.8l7.1 1.6l7 0.7l7.1-2.6l7.1-1.4l7.1-2.2l7.1-17.2l7.1-21.1l7.1-15.7l7-7.3l7.1-4.4l7.1-2l7.1-2.5l7.1-1.2l7-2.6l7.1-1.7l7.1-1l7.1-1.3"/>
<path stroke="#7E2F8E" d="M43.8 104.8l7.1 3.5l7.1 1.3l7-0.7l7.1-5.7l7.1-7l7.1-4.3l7.1-2.9l7.1-2.7l7.1-3.5l7-0.9l7.1-0.7l7.1 5.5l7.1 4l7.1 3.4l7-1.9l7.1-3l7.1-0.1l7.1-4l7.1-17.7l7.1-16.9l7.1-11.1l7-4.8l7.1-2.9l7.1-0.5l7.1-2.1l7.1-0.7l7-0.1l7.1-0.9l7.1 0.3l7.1-0.7"/>
<path stroke="#77AC30" d="M43.8 133.2l7.1-0.4l7.1-1.3l7-1.6l7.1-5l7.1-4.6l7.1-4.2l7.1-3.3l7.1-2.5l7.1-1.5l7-2.2l7.1 1.1l7.1 4.6l7.1 4.8l7.1 1.7l7 1.6l7.1-2.3l7.1-1.4l7.1-3.6l7.1-18.7l7.1-20.7l7.1-14.2l7-7l7.1-2.8l7.1-2l7.1-2.6l7.1-0.6l7-1.4l7.1-0.9l7.1-1.6l7.1-1.1"/>
<path stroke="#4DBEEE" d="M43.8 139.3l7.1-0.4l7.1-2.1l7-3l7.1-4.7l7.1-5.4l7.1-4.9l7.1-3.7l7.1-2.5l7.1-2.7l7-2.2l7.1-0.7l7.1 4.9l7.1 4.4l7.1 2.2l7-0.1l7.1-3.7l7.1 0l7.1-2.5l7.1-19.9l7.1-21.2l7.1-14.3l7-7.5l7.1-4.1l7.1-2.1l7.1-0.8l7.1-2l7-0.9l7.1-0.6l7.1-1.1l7.1-1.3"/>
<path stroke="#A2142F" d="M43.8 132.1l7.1-0.6l7.1-0.7l7-2.2l7.1-4.9l7.1-4.9l7.1-5.4l7.1-3.7l7.1-2.4l7.1-3.2l7-1.3l7.1-0.5l7.1 4.5l7.1 3.7l7.1 1.7l7-0.5l7.1-2.3l7.1 0.2l7.1-2.5l7.1-18.3l7.1-20.3l7.1-14l7-6.8l7.1-1.9l7.1-1.1l7.1-1.1l7.1-0.8l7-0.6l7.1-0.7l7.1-0.1l7.1-0.2"/>
<path stroke="#0072BD" d="M43.8 140.6l7.1-0.4l7.1-0.9l7-1.7l7.1-4.7l7.1-4l7.1-3.2l7.1-3.8l7.1-2.9l7.1-0.9l7-2.6l7.1-0.2l7.1 3.8l7.1 5.2l7.1 3.3l7-3.1l7.1-5.5l7.1 1.7l7.1-1.2l7.1-19.6l7.1-22.9l7.1-14.5l7-7.6l7.1-4l7.1-1.2l7.1-1.8l7.1-1.6l7-0.6l7.1-0.7l7.1-0.7l7.1-1.1"/>
<path stroke="#D95319" d="M43.8 100.3l7.1 4.4l7.1 0.7l7-2.2l7.1-6.1l7.1-6.9l7.1-6.1l7.1-3.4l7.1-2.6l7.1-2.5l7-2l7.1 0l7.1 3.5l7.1 4.7l7.1 1.5l7-1.9l7.1-4.1l7.1 0.2l7.1-3.6l7.1-17.9l7.1-16.6l7.1-10.3l7-6.1l7.1-2l7.1-1.8l7.1-1.1l7.1-0.8l7-1l7.1-0.9l7.1-0.4l7.1-1.1"/>
<path stroke="#EDB120" d="M43.8 107.4l7.1 3.4l7.1 1.8l7-0.7l7.1-5.3l7.1-5.7l7.1-5l7.1-2.3l7.1-1.3l7.1-1.6l7-1.5l7.1-0.7l7.1 5l7.1 4.6l7.1 2.8l7-2.9l7.1-4l7.1-0.7l7.1-5.2l7.1-18.7l7.1-17.7l7.1-13.2l7-6.4l7.1-2.6l7.1-2.2l7.1-1.6l7.1-1.6l7-2.1l7.1-0.7l7.1-1.5l7.1-2.5"/>
<path stroke="#7E2F8E" d="M43.8 123.7l7.1 1.1l7.1-1l7-1.6l7.1-5.9l7.1-5.8l7.1-4.1l7.1-3l7.1-3l7.1-1.8l7-1.5l7.1 1.1l7.1 4.8l7.1 5.8l7.1 3.5l7 0.9l7.1-3.3l7.1 1l7.1-0.9l7.1-18.4l7.1-20.5l7.1-14l7-7l7.1-3.8l7.1-1.6l7.1-1.6l7.1-2.4l7-2l7.1-1l7.1-2l7.1-2.4"/>
<path stroke="#77AC30" d="M43.8 123.3l7.1 1l7.1 0l7-1.2l7.1-5.9l7.1-4.9l7.1-4.5l7.1-3.3l7.1-2l7.1-1.3l7-2.1l7.1 1.6l7.1 5.3l7.1 4.5l7.1 1.5l7 0l7.1-2.6l7.1 0l7.1-1.7l7.1-17.5l7.1-19.9l7.1-12.5l7-6.1l7.1-2.6l7.1-2.5l7.1-1.4l7.1-2.2l7-0.6l7.1-0.6l7.1-1.5l7.1-0.5"/>
<path stroke="#4DBEEE" d="M43.8 105.9l7.1 3.3l7.1 0l7-0.9l7.1-6l7.1-6.8l7.1-6.5l7.1-4.1l7.1-2.6l7.1-2.9l7-1.6l7.1-0.7l7.1 3.9l7.1 4.4l7.1 2.2l7 0.1l7.1-3.3l7.1-1.9l7.1-4.5l7.1-16.3l7.1-17.2l7.1-11.1l7-4.2l7.1-2.4l7.1-1.9l7.1-1.5l7.1-1.4l7-0.9l7.1-1.4l7.1-0.4l7.1-2.4"/>
<path stroke="#A2142F" d="M43.8 121.1l7.1 0.2l7.1-0.7l7-1.5l7.1-5.2l7.1-5.8l7.1-6.2l7.1-3.5l7.1-2.8l7.1-4.2l7-2.1l7.1-0.3l7.1 4.2l7.1 3.4l7.1 1.3l7-1.4l7.1-3.5l7.1-1.2l7.1-4.9l7.1-18l7.1-18.2l7.1-11.5l7-5.7l7.1-3.1l7.1-2l7.1-1.3l7.1-1.5l7-1.1l7.1-0.3l7.1-2.2l7.1-1"/>
<path stroke="#0072BD" d="M43.8 124.4l7.1 1.8l7.1-0.8l7-1.3l7.1-4.6l7.1-5.7l7.1-4.6l7.1-3.2l7.1-1.5l7.1-0.9l7-1.2l7.1 0.3l7.1 4.6l7.1 5.3l7.1 0.9l7-0.7l7.1-1.5l7.1-1.2l7.1-1.6l7.1-17.9l7.1-20.4l7.1-13.4l7-7.7l7.1-3.3l7.1-2.2l7.1-1.6l7.1-2l7-1.5l7.1-1.6l7.1-1.4l7.1-0.5"/>
<path stroke="#D95319" d="M43.8 103.5l7.1 3.3l7.1 1.6l7-1.6l7.1-5.3l7.1-7.5l7.1-5.7l7.1-3.5l7.1-2.2l7.1-0.9l7-0.6l7.1 1.4l7.1 4.7l7.1 5.6l7.1 3.5l7 0l7.1-3.5l7.1 1.3l7.1-1.3l7.1-18l7.1-17l7.1-12l7-4.9l7.1-1.3l7.1-1.1l7.1-0.3l7.1-1.4l7-1.3l7.1 0l7.1-1.3l7.1-0.9"/>
<path stroke="#EDB120" d="M43.8 114.8l7.1 2.5l7.1-0.2l7-1.5l7.1-6.8l7.1-6.5l7.1-6.3l7.1-3.6l7.1-3.8l7.1-1.2l7-2.7l7.1-1.7l7.1 3.7l7.1 4l7.1 2.4l7-1.9l7.1-3.4l7.1-0.4l7.1-4l7.1-17.8l7.1-17l7.1-11.4l7-5.1l7.1-2.2l7.1-2.7l7.1-0.9l7.1 0.4l7-1.3l7.1-1.2l7.1-0.4l7.1 0.4"/>
<path stroke="#7E2F8E" d="M43.8 115.4l7.1 2l7.1 0.5l7-3.3l7.1-5.2l7.1-6.4l7.1-5.3l7.1-3.5l7.1-2.4l7.1-2.4l7-1.4l7.1-0.1l7.1 5.1l7.1 3.9l7.1 3l7-0.8l7.1-3.2l7.1-0.7l7.1-3.6l7.1-18l7.1-17.2l7.1-12.9l7-5.7l7.1-2.4l7.1-1.9l7.1-1.3l7.1-1.4l7-0.5l7.1-0.2l7.1-2l7.1-0.1"/>
<path stroke="#77AC30" d="M43.8 125.1l7.1 1.4l7.1 0l7-2.2l7.1-5.5l7.1-6.4l7.1-4.2l7.1-2.9l7.1-2.6l7.1-3.2l7-1.6l7.1 0.5l7.1 5.4l7.1 3.1l7.1 1.9l7-0.2l7.1-2.6l7.1-0.3l7.1-3.9l7.1-17.6l7.1-19.8l7.1-13.7l7-6.9l7.1-3.1l7.1-2.1l7.1-1.2l7.1-1.3l7-1.2l7.1 0.3l7.1-0.5l7.1-1.6"/>
<path stroke="#4DBEEE" d="M43.8 137.5l7.1 0.3l7.1-0.7l7-2.3l7.1-3.2l7.1-4.4l7.1-2.2l7.1-1.4l7.1-2.6l7.1-1l7-1l7.1 1.1l7.1 4.9l7.1 5.1l7.1 2l7 0.5l7.1-1.5l7.1-0.8l7.1-0.8l7.1-18.1l7.1-23.4l7.1-16.2l7-7.9l7.1-3.2l7.1-2.2l7.1-1.6l7.1-1.2l7-1.7l7.1-2.1l7.1-2.3l7.1-1.2"/>
<path stroke="#A2142F" d="M43.8 120.7l7.1 0.6l7.1 0.8l7-1.1l7.1-5.6l7.1-5.7l7.1-4.9l7.1-5.3l7.1-2.7l7.1-3l7-1.7l7.1 0.4l7.1 4.2l7.1 4.7l7.1 0.9l7-0.1l7.1-3.4l7.1-1l7.1-4.5l7.1-17.3l7.1-19.5l7.1-12.9l7-7.6l7.1-3.2l7.1-3l7.1-2.4l7.1-1.3l7-2.7l7.1-2.7l7.1-0.8l7.1-1.5"/>
<path stroke="#0072BD" d="M43.8 139.4l7.1-1.6l7.1-1.8l7-3.6l7.1-5.5l7.1-5.8l7.1-5.5l7.1-4.2l7.1-3.7l7.1-2.5l7-2.9l7.1-1.2l7.1 4.6l7.1 3.6l7.1 1.6l7-1.1l7.1-2.6l7.1-0.5l7.1-5l7.1-20.3l7.1-20.1l7.1-14.2l7-7.2l7.1-3.2l7.1-3.3l7.1-1.5l7.1-2.1l7-2.3l7.1-1.7l7.1-1.7l7.1-2.1"/>
<path stroke="#D95319" d="M43.8 111.4l7.1 2.4l7.1 0.6l7-1l7.1-6.5l7.1-6.9l7.1-5.6l7.1-3.2l7.1-3.3l7.1-2l7-2.4l7.1 0.1l7.1 3.3l7.1 5.5l7.1 3l7-2.8l7.1-1.7l7.1-0.4l7.1-3.9l7.1-16.1l7.1-17.7l7.1-12.3l7-5.9l7.1-2.2l7.1-1.1l7.1-3.2l7.1-0.7l7-0.5l7.1-1.8l7.1-0.5l7.1-1.1"/>
<path stroke="#EDB120" d="M43.8 120.3l7.1 1.2l7.1-0.2l7-2.5l7.1-5.4l7.1-6.6l7.1-5.9l7.1-3.4l7.1-2l7.1-3.3l7-2.6l7.1 0l7.1 3.3l7.1 3.6l7.1 3.4l7-1.8l7.1-2.2l7.1-1l7.1-3.7l7.1-17.7l7.1-19l7.1-10.2l7-5.6l7.1-1.7l7.1-2l7.1-0.6l7.1-1.3l7-0.3l7.1-1.4l7.1-1.3l7.1-1.7"/>
<path stroke="#7E2F8E" d="M43.8 134.1l7.1-0.2l7.1-1l7-3.1l7.1-3.9l7.1-4.8l7.1-4.5l7.1-4l7.1-4l7.1-2.3l7-2.8l7.1-0.4l7.1 3.5l7.1 3.4l7.1-0.8l7-0.5l7.1-1.8l7.1-2.9l7.1-3.2l7.1-17.9l7.1-19.8l7.1-13.6l7-6.3l7.1-3.3l7.1-2.1l7.1-2.1l7.1-1.4l7-0.8l7.1-1.7l7.1-1.1l7.1-1.3"/>
<path stroke="#77AC30" d="M43.8 107.8l7.1 3.6l7.1 1.1l7-1l7.1-6.7l7.1-6.9l7.1-4.7l7.1-4.8l7.1-2.9l7.1-2.2l7-2.1l7.1-0.8l7.1 3.9l7.1 4.2l7.1 2.2l7-1.2l7.1-2.9l7.1-1.3l7.1-4.2l7.1-16.5l7.1-17.1l7.1-10.9l7-5l7.1-1.9l7.1-0.8l7.1-1l7.1-1.1l7-0.1l7.1-1.8l7.1-0.2l7.1-0.7"/>
<path stroke="#4DBEEE" d="M43.8 131.6l7.1-0.4l7.1-2l7-2.3l7.1-4.8l7.1-5.7l7.1-5.5l7.1-4l7.1-3.2l7.1-2.4l7-2.8l7.1 0.2l7.1 3.6l7.1 4.2l7.1 2.5l7-0.7l7.1-4l7.1-0.9l7.1-2.4l7.1-18.8l7.1-19.6l7.1-13.4l7-6.9l7.1-2.8l7.1-1.5l7.1-2l7.1-1.7l7-1.8l7.1-0.7l7.1-0.4l7.1-1.2"/>
<path stroke="#A2142F" d="M43.8 99.8l7.1 4.1l7.1 1.4l7-1.2l7.1-5.9l7.1-7.5l7.1-5.8l7.1-4.3l7.1-1.8l7.1-1.3l7-2.9l7.1 0.8l7.1 3.6l7.1 3.8l7.1-0.2l7 0l7.1 1l7.1-3.1l7.1-6.1l7.1-14.9l7.1-17.4l7.1-10.1l7-5.5l7.1-2l7.1-1.8l7.1-0.8l7.1-0.7l7-0.5l7.1-0.7l7.1-1.7l7.1-0.2"/>
<path stroke="#0072BD" d="M43.8 105.5l7.1 4l7.1 0.7l7-1.5l7.1-5.4l7.1-7.1l7.1-5l7.1-3.5l7.1-2.7l7.1-1.8l7-1.1l7.1 0.1l7.1 5.3l7.1 4.9l7.1 3.3l7-0.4l7.1-1.6l7.1 1.8l7.1-1.6l7.1-15.7l7.1-16.7l7.1-11.7l7-5.9l7.1-1.2l7.1-0.3l7.1 0l7.1 0.9l7 0l7.1 0.4l7.1 0.4l7.1 0.1"/>
<path stroke="#D95319" d="M43.8 133l7.1 0.7l7.1-0.5l7-1.2l7.1-4.3l7.1-4l7.1-4.6l7.1-2.4l7.1-2.9l7.1-1.8l7-1.1l7.1 0.3l7.1 3.7l7.1 5.4l7.1 2l7 0.6l7.1-0.8l7.1-0.9l7.1-2l7.1-17.5l7.1-21.6l7.1-15.1l7-7l7.1-3.3l7.1-1.4l7.1-1.2l7.1-0.6l7-1.5l7.1-1l7.1 0.1l7.1-0.7"/>
<path stroke="#EDB120" d="M43.8 129.4l7.1 1l7.1-1.3l7-1.6l7.1-5.1l7.1-4.8l7.1-4.5l7.1-1.9l7.1-2l7.1-1.5l7-1l7.1 1l7.1 4.9l7.1 6.3l7.1 3.3l7 0.6l7.1-1.8l7.1 2.4l7.1-0.8l7.1-17.9l7.1-21.3l7.1-15.9l7-7.9l7.1-2.5l7.1-1.4l7.1-1.4l7.1-1.5l7-0.7l7.1 0l7.1-0.2l7.1-0.7"/>
<path stroke="#7E2F8E" d="M43.8 135.5l7.1-0.5l7.1-1.1l7-2.9l7.1-4.2l7.1-5.6l7.1-4.9l7.1-3.7l7.1-2.6l7.1-3.2l7-2.3l7.1-1l7.1 3l7.1 3.7l7.1 0.5l7-0.7l7.1-2.4l7.1-2.1l7.1-4.7l7.1-18.9l7.1-20l7.1-12.8l7-7l7.1-2.2l7.1-1.6l7.1-2.4l7.1-1.2l7-0.3l7.1-1.7l7.1-1.6l7.1-0.1"/>
<path stroke="#77AC30" d="M43.8 141.5l7.1-1.5l7.1-2.4l7-3.8l7.1-4.6l7.1-6.1l7.1-5.4l7.1-3.9l7.1-4.7l7.1-3.2l7-2.9l7.1-2.7l7.1 4.5l7.1 2.3l7.1-0.1l7-1.9l7.1-2l7.1-3l7.1-4.5l7.1-18.4l7.1-19.8l7.1-12.7l7-6.7l7.1-3.6l7.1-2.7l7.1-1.7l7.1-1.7l7-1.4l7.1-1.6l7.1-1.8l7.1-1.6"/>
<path stroke="#4DBEEE" d="M43.8 110.4l7.1 2.3l7.1 0.7l7-1.8l7.1-4.9l7.1-5.8l7.1-4.9l7.1-3.5l7.1-2.1l7.1-1.3l7-1.1l7.1 0.2l7.1 4.8l7.1 3.9l7.1 2.8l7-0.5l7.1-1.6l7.1-2.3l7.1-4.3l7.1-17.5l7.1-17.9l7.1-12.1l7-7.2l7.1-2.4l7.1-1.5l7.1-2.2l7.1-1.4l7-1.8l7.1-0.8l7.1-2l7.1-1"/>
<path stroke="#A2142F" d="M43.8 118.3l7.1 2.4l7.1 0.4l7-1.8l7.1-5.3l7.1-5.1l7.1-3.9l7.1-3.2l7.1-2.6l7.1-2.4l7-1.1l7.1 0.8l7.1 4.8l7.1 5.3l7.1 3.5l7-2.4l7.1-5.4l7.1 1.4l7.1-2.4l7.1-18l7.1-20.1l7.1-13.3l7-6.6l7.1-3.2l7.1-2.3l7.1-1.4l7.1-0.9l7-1.6l7.1-0.6l7.1-0.8l7.1-0.4"/>
<path stroke="#0072BD" d="M43.8 136.1l7.1-1.1l7.1-1.9l7-2.2l7.1-3.7l7.1-3.8l7.1-5.2l7.1-3.3l7.1-3.3l7.1-1.3l7-1.3l7.1-0.5l7.1 4.8l7.1 3.8l7.1 1.9l7-0.9l7.1-2.7l7.1-1.3l7.1-3.9l7.1-18.8l7.1-21.2l7.1-13.9l7-7.6l7.1-3.1l7.1-1.8l7.1-1.3l7.1-1.2l7-1.8l7.1-0.4l7.1-1.4l7.1-0.8"/>
<path stroke="#D95319" d="M43.8 129.2l7.1 0.4l7.1-1.1l7-2.1l7.1-5.7l7.1-5.6l7.1-4.2l7.1-3.1l7.1-3.4l7.1-3l7-2.4l7.1-1.1l7.1 4.1l7.1 3.9l7.1 2.5l7-0.5l7.1-4.2l7.1 0.1l7.1-3.6l7.1-18.9l7.1-20.5l7.1-12.6l7-6.3l7.1-2.6l7.1-2.1l7.1-1.1l7.1-1.8l7-0.7l7.1-0.8l7.1-0.7l7.1-0.9"/>
<path stroke="#EDB120" d="M43.8 130.7l7.1-0.1l7.1-0.6l7-2.9l7.1-4.8l7.1-4.5l7.1-5.3l7.1-3.9l7.1-3.6l7.1-3.1l7-2.8l7.1 0.7l7.1 4.8l7.1 4.3l7.1 0.6l7 1.9l7.1-0.3l7.1-3.3l7.1-3.3l7.1-16.6l7.1-20.6l7.1-12.5l7-7.2l7.1-2.8l7.1-2.1l7.1-1.7l7.1-2l7-1.1l7.1-1.6l7.1-0.8l7.1-0.7"/>
<path stroke="#7E2F8E" d="M43.8 109.9l7.1 2.8l7.1 0.4l7-1.7l7.1-6.1l7.1-6.1l7.1-5.8l7.1-3.6l7.1-2.5l7.1-2.8l7-2.7l7.1-0.1l7.1 3.8l7.1 4.4l7.1 2.3l7-1.9l7.1-2.8l7.1-0.1l7.1-4l7.1-17.2l7.1-16.5l7.1-11.6l7-6.1l7.1-1.7l7.1-2l7.1-1.3l7.1-1.3l7-2.1l7.1-0.3l7.1-0.8l7.1-1.3"/>
<path stroke="#77AC30" d="M43.8 105.9l7.1 2.3l7.1 1.3l7 0l7.1-6.4l7.1-6.7l7.1-5.7l7.1-2.6l7.1-1.9l7.1-1.6l7-1.2l7.1 0.1l7.1 4.5l7.1 4.3l7.1 2.4l7 1l7.1 0.1l7.1-1.5l7.1-4.3l7.1-15.1l7.1-17.2l7.1-11.2l7-6.3l7.1-1.7l7.1-0.9l7.1-2l7.1-0.4l7 0.5l7.1-0.6l7.1-1.5l7.1-0.7"/>
<path stroke="#4DBEEE" d="M43.8 126.1l7.1 1.3l7.1-0.1l7-1.4l7.1-4.2l7.1-5.5l7.1-3.6l7.1-3.5l7.1-2.5l7.1-1.7l7-1.2l7.1 1.3l7.1 5.5l7.1 4.9l7.1 3l7 0.7l7.1-1.1l7.1-1.8l7.1-1.6l7.1-17.4l7.1-22.2l7.1-13.7l7-7.5l7.1-2.5l7.1-0.8l7.1-2.7l7.1-0.8l7-0.7l7.1-0.6l7.1 0.2l7.1-2.3"/>
<path stroke="#A2142F" d="M43.8 119.7l7.1 1.5l7.1 1.2l7-0.5l7.1-4.4l7.1-4.6l7.1-5l7.1-3.2l7.1-1.8l7.1-2.9l7-2.2l7.1 0.1l7.1 4.4l7.1 3.7l7.1 3l7-1.2l7.1-3.9l7.1-0.9l7.1-3.7l7.1-18.1l7.1-19.4l7.1-13.4l7-7.1l7.1-2.6l7.1-0.5l7.1-2l7.1-0.6l7-0.5l7.1-0.7l7.1-1.1l7.1-0.1"/>
<path stroke="#0072BD" d="M43.8 109l7.1 3.6l7.1 0.9l7-0.9l7.1-6l7.1-6l7.1-5.8l7.1-3l7.1-1.8l7.1-3.2l7-1l7.1 0.3l7.1 4l7.1 4.9l7.1 1.7l7-0.5l7.1-0.7l7.1-0.6l7.1-4.1l7.1-17.2l7.1-17.5l7.1-11.5l7-5.3l7.1-2.7l7.1-1.1l7.1-0.8l7.1-1.6l7-1.4l7.1 0.2l7.1-0.3l7.1-0.8"/>
<path stroke="#D95319" d="M43.8 107.4l7.1 3.6l7.1 1.8l7-0.4l7.1-4.4l7.1-5.3l7.1-5.1l7.1-2.4l7.1-1.8l7.1-1.6l7-0.9l7.1 1.3l7.1 5.2l7.1 3.2l7.1 1.4l7 1.1l7.1-0.6l7.1-1.3l7.1-1.8l7.1-16.6l7.1-19l7.1-13l7-6.3l7.1-2.8l7.1-1.3l7.1-1.5l7.1-1.2l7-1.5l7.1-0.6l7.1-1.6l7.1-0.9"/>
<path stroke="#EDB120" d="M43.8 128.3l7.1 1.3l7.1-1.1l7-1.8l7.1-4l7.1-5.1l7.1-3l7.1-2.2l7.1-2l7.1 0.1l7-0.8l7.1 1.6l7.1 5.3l7.1 4.6l7.1 2.5l7 2.7l7.1-0.3l7.1-0.8l7.1-0.4l7.1-15.1l7.1-22.2l7.1-16.1l7-7.2l7.1-3.5l7.1-2.3l7.1-1.2l7.1-1.7l7-0.9l7.1-1.1l7.1-0.9l7.1-0.9"/>
<path stroke="#7E2F8E" d="M43.8 129.9l7.1 0.4l7.1 0.1l7-2l7.1-4.7l7.1-6.2l7.1-3.9l7.1-3.2l7.1-2.9l7.1-3.2l7-3l7.1 1.2l7.1 4.5l7.1 3.9l7.1 2.4l7-0.3l7.1-3.9l7.1-1.7l7.1-2l7.1-18.6l7.1-20.1l7.1-12.7l7-7.9l7.1-3l7.1-2.2l7.1-2.7l7.1-2.1l7-1.5l7.1-1.2l7.1-2.2l7.1-1.8"/>
<path stroke="#77AC30" d="M43.8 115.5l7.1 2.3l7.1 1.1l7-1l7.1-4.7l7.1-5.5l7.1-4.5l7.1-2.5l7.1-1.5l7.1-1.2l7-2.1l7.1 1.3l7.1 4.7l7.1 5.4l7.1 2l7 0.5l7.1-2l7.1-0.5l7.1-2.7l7.1-17.6l7.1-18.8l7.1-13.7l7-5.8l7.1-3.1l7.1-1.1l7.1-1.5l7.1-0.4l7-0.9l7.1-1.2l7.1 0.1l7.1-0.9"/>
<path stroke="#4DBEEE" d="M43.8 120.3l7.1 1.2l7.1-0.3l7-1.8l7.1-5.2l7.1-5.9l7.1-4.4l7.1-3.4l7.1-2.5l7.1-2.5l7-2.4l7.1-1.7l7.1 4.3l7.1 4.3l7.1 1.7l7-1l7.1-3l7.1-1.1l7.1-4.9l7.1-16.3l7.1-19.3l7.1-12.2l7-5.7l7.1-3l7.1-1.8l7.1-2l7.1-1.9l7-1.6l7.1-0.6l7.1-0.7l7.1-0.8"/>
<path stroke="#A2142F" d="M43.8 126.7l7.1 1l7.1 0.5l7-2.3l7.1-4.5l7.1-4.4l7.1-4.3l7.1-1.5l7.1-2.8l7.1-0.9l7-0.8l7.1 1l7.1 5.7l7.1 5.8l7.1 4.5l7-0.9l7.1-2.6l7.1 0.7l7.1-2.2l7.1-17.7l7.1-21.8l7.1-14.6l7-6.9l7.1-3.6l7.1-1.8l7.1-1.3l7.1-1.1l7-0.9l7.1-0.1l7.1-0.4l7.1-1.7"/>
<path stroke="#0072BD" d="M43.8 139.1l7.1-1.2l7.1-2.9l7-3.3l7.1-4.2l7.1-5.3l7.1-5l7.1-3.2l7.1-3.4l7.1-4.1l7-2.6l7.1-0.7l7.1 2.9l7.1 2.5l7.1 1.5l7-2.2l7.1-3.2l7.1-1.2l7.1-5.3l7.1-18.7l7.1-19.7l7.1-13.2l7-6.5l7.1-2.7l7.1-1.9l7.1-1.9l7.1-2.1l7-1.8l7.1-0.5l7.1-0.2l7.1-2"/>
<path stroke="#D95319" d="M43.8 119.7l7.1 2.2l7.1 0.2l7-2l7.1-5l7.1-5.9l7.1-4.8l7.1-3.2l7.1-2.3l7.1-2.6l7-1.9l7.1-0.8l7.1 3.2l7.1 4l7.1 0.8l7-0.8l7.1-2.2l7.1-1.3l7.1-4.1l7.1-17.5l7.1-18.1l7.1-11.2l7-6.8l7.1-1.3l7.1-2l7.1-1.6l7.1-1.1l7-1.2l7.1-0.4l7.1-0.3l7.1-0.1"/>
<path stroke="#EDB120" d="M43.8 118.4l7.1 1.7l7.1-0.1l7-1.2l7.1-5.7l7.1-6.1l7.1-4.5l7.1-3.6l7.1-2.1l7.1-2.1l7-2.7l7.1 0.5l7.1 3.8l7.1 3.3l7.1 0.9l7-1.7l7.1-1.7l7.1-2.3l7.1-5.1l7.1-18.7l7.1-17l7.1-12.2l7-7l7.1-1.8l7.1-1.3l7.1-1.3l7.1-1l7-1.2l7.1-1l7.1-1.1l7.1-1.6"/>
<path stroke="#7E2F8E" d="M43.8 127.2l7.1-0.2l7.1 0l7-2.8l7.1-4.2l7.1-5.6l7.1-4.9l7.1-2.5l7.1-2.2l7.1-1.8l7-2.2l7.1 0.1l7.1 3.7l7.1 3.7l7.1 2.6l7-0.7l7.1-3l7.1-0.8l7.1-2.4l7.1-17.3l7.1-21.9l7.1-12.7l7-6.3l7.1-4.2l7.1-1.2l7.1-1.5l7.1-1.3l7-1.4l7.1-1.7l7.1-0.6l7.1-0.8"/>
<path stroke="#77AC30" d="M43.8 117.4l7.1 2.4l7.1-0.7l7-1.2l7.1-5.3l7.1-6.6l7.1-5.5l7.1-3l7.1-2.8l7.1-2.4l7-2.5l7.1-0.7l7.1 2.6l7.1 3.5l7.1 2.5l7-2.5l7.1-5l7.1 1.2l7.1-4.1l7.1-19.2l7.1-18.9l7.1-12.4l7-6.1l7.1-3.4l7.1-2.8l7.1-2.5l7.1-1.9l7-4l7.1-1.6l7.1-2l7.1-1.4"/>
<path stroke="#4DBEEE" d="M43.8 104.7l7.1 2.7l7.1 2.3l7-0.6l7.1-5.5l7.1-5.9l7.1-5.7l7.1-2l7.1-1.5l7.1-2.7l7-1l7.1 2.3l7.1 4.1l7.1 4.8l7.1 3.6l7-1.2l7.1-1.6l7.1 1.4l7.1-1.9l7.1-16.5l7.1-18.1l7.1-9.8l7-4.7l7.1-2.7l7.1 0.5l7.1-0.1l7.1-0.5l7 0.2l7.1 0.2l7.1 0.9l7.1-0.2"/>
<path stroke="#A2142F" d="M43.8 117.4l7.1 2.5l7.1 0.3l7-1.5l7.1-5.1l7.1-6l7.1-5.6l7.1-2.4l7.1-2.2l7.1-1.9l7-2.6l7.1-0.2l7.1 5.5l7.1 3.8l7.1 2.5l7 0.6l7.1-1.2l7.1-0.4l7.1-2.8l7.1-17.1l7.1-18.9l7.1-13l7-6.2l7.1-2.1l7.1-1.3l7.1-1.4l7.1-0.2l7-1.2l7.1-1.3l7.1-0.5l7.1-1.5"/>
<path stroke="#0072BD" d="M43.8 113.4l7.1 2l7.1 0.4l7-1.3l7.1-6.1l7.1-6.8l7.1-5l7.1-3l7.1-2.3l7.1-1.9l7-2.2l7.1 0.3l7.1 4.8l7.1 4.8l7.1 2.9l7-2.2l7.1-2.5l7.1 0.2l7.1-4.5l7.1-17.3l7.1-18.5l7.1-12.7l7-5.9l7.1-2.1l7.1-0.8l7.1-2l7.1-0.9l7-0.7l7.1-0.6l7.1-1.2l7.1-0.9"/>
<path stroke="#D95319" d="M43.8 138.9l7.1-1.6l7.1-1.2l7-2.7l7.1-4.4l7.1-6.5l7.1-4.1l7.1-3.5l7.1-3.5l7.1-1.8l7-2.5l7.1-0.1l7.1 4.1l7.1 3.9l7.1 1.2l7 0.6l7.1-0.1l7.1-3.3l7.1-3.9l7.1-17.2l7.1-22l7.1-14.3l7-6.8l7.1-2.3l7.1-2l7.1-1.3l7.1-2.6l7-0.4l7.1-1.6l7.1-2l7.1-2.3"/>
<path stroke="#EDB120" d="M43.8 119.4l7.1 2.1l7.1 0.8l7-1.7l7.1-5.8l7.1-4.7l7.1-3.5l7.1-2.9l7.1-2.6l7.1-3.2l7-1.5l7.1-0.2l7.1 3.5l7.1 3.8l7.1 2l7-2.2l7.1-6l7.1-1.2l7.1-5.6l7.1-19l7.1-19.3l7.1-12.8l7-6.6l7.1-4l7.1-2.5l7.1-3.4l7.1-2.9l7-2.4l7.1-1.7l7.1-2.3l7.1-1.3"/>
<path stroke="#7E2F8E" d="M43.8 106.6l7.1 2.4l7.1 1.5l7-1.4l7.1-5.3l7.1-4.8l7.1-5.4l7.1-3.3l7.1-3.3l7.1-1.3l7-2.5l7.1 1.2l7.1 3.9l7.1 3.3l7.1 0.5l7-0.5l7.1-1.7l7.1-1.3l7.1-4.4l7.1-17.6l7.1-18.4l7.1-10.9l7-5.5l7.1-2.8l7.1-1.8l7.1-1.5l7.1-1.6l7-1.4l7.1-0.4l7.1-0.3l7.1-1.1"/>
<path stroke="#77AC30" d="M43.8 136.2l7.1-0.7l7.1-1.6l7-2.7l7.1-4.7l7.1-5.5l7.1-4.6l7.1-3.7l7.1-3.6l7.1-2.2l7-2.4l7.1-1l7.1 3.8l7.1 3.5l7.1 1l7-2.5l7.1-3.1l7.1-1.4l7.1-4.7l7.1-18.9l7.1-19.8l7.1-14.4l7-7l7.1-3.5l7.1-2.9l7.1-1.3l7.1-1.9l7-1.5l7.1-2.1l7.1-1.1l7.1-1.4"/>
<path stroke="#4DBEEE" d="M43.8 123.4l7.1 0.8l7.1-0.3l7-2.2l7.1-5.7l7.1-7.2l7.1-5.3l7.1-4.1l7.1-3.2l7.1-3l7-1.9l7.1-0.3l7.1 4.2l7.1 4.9l7.1 2.1l7 0.2l7.1-4l7.1 0.1l7.1-2.3l7.1-16.1l7.1-17.9l7.1-12.1l7-5.2l7.1-1.3l7.1-1l7.1-0.1l7.1-1.4l7 1.5l7.1-0.8l7.1 0.7l7.1 0.4"/>
<path stroke="#A2142F" d="M43.8 139.9l7.1 0.9l7.1-1.4l7-2.8l7.1-2.6l7.1-3.8l7.1-4l7.1-2.4l7.1-2l7.1-1.4l7-1.5l7.1-0.4l7.1 4.5l7.1 4.1l7.1 1.4l7 0.3l7.1-3.2l7.1 0.4l7.1-1.7l7.1-18.7l7.1-22.8l7.1-14.2l7-8.8l7.1-3.6l7.1-1.1l7.1-1.3l7.1-1l7-1.1l7.1 0.5l7.1-0.2l7.1-0.3"/>
<path stroke="#0072BD" d="M43.8 97.8l7.1 4.6l7.1 2l7-0.6l7.1-5.8l7.1-4.9l7.1-4.7l7.1-1.8l7.1-1.3l7.1-2.1l7-0.5l7.1 0.9l7.1 5.6l7.1 5.6l7.1 3l7 0.6l7.1-0.8l7.1 0.1l7.1-2.9l7.1-16.2l7.1-17.3l7.1-11l7-5.2l7.1-2.5l7.1-1.6l7.1-0.9l7.1 0.4l7-0.1l7.1 0l7.1-0.1l7.1 0"/>
<path stroke="#D95319" d="M43.8 116.7l7.1 1.1l7.1 0.3l7-1.8l7.1-4.6l7.1-5.3l7.1-5l7.1-3.1l7.1-3l7.1-2.9l7-1.9l7.1-0.2l7.1 3.9l7.1 5.2l7.1 1.5l7-1l7.1-2.2l7.1-1.3l7.1-4.8l7.1-15.7l7.1-20.1l7.1-12.1l7-6.2l7.1-3l7.1-1l7.1-3l7.1-0.5l7-2l7.1-2.2l7.1-2l7.1-2.7"/>
<path stroke="#EDB120" d="M43.8 112.8l7.1 3.2l7.1 0.6l7-1.8l7.1-4.7l7.1-5.8l7.1-3.7l7.1-2.6l7.1-1.9l7.1-0.5l7-1.7l7.1 1.6l7.1 6.5l7.1 6.5l7.1 5.2l7-0.7l7.1-3.4l7.1 4.8l7.1 0.5l7.1-18.2l7.1-19.6l7.1-13.5l7-6.4l7.1-3.1l7.1-0.2l7.1-1l7.1-0.5l7-1.4l7.1 1l7.1-0.9l7.1-0.5"/>
<path stroke="#7E2F8E" d="M43.8 135.3l7.1-0.6l7.1-2.1l7-4.4l7.1-4.7l7.1-6l7.1-6.6l7.1-5.1l7.1-3.5l7.1-4l7-3.8l7.1-2l7.1 1.4l7.1 3.3l7.1 1.3l7-2.8l7.1-5.3l7.1-1.1l7.1-5.2l7.1-19.8l7.1-17.1l7.1-11.7l7-6.5l7.1-3.7l7.1-2.1l7.1-1.8l7.1-1.7l7-1.4l7.1-2.3l7.1-2.2l7.1-2.1"/>
<path stroke="#77AC30" d="M43.8 137.4l7.1-1.1l7.1 0.4l7-2.9l7.1-4.9l7.1-3l7.1-4.3l7.1-2.8l7.1-3.9l7.1-2.2l7-1.5l7.1-0.3l7.1 3.9l7.1 4.1l7.1-0.5l7 1.3l7.1-0.3l7.1-4l7.1-3.9l7.1-17.9l7.1-20.9l7.1-15.3l7-6.7l7.1-2.6l7.1-2.2l7.1-1.4l7.1-1.5l7-0.9l7.1-0.5l7.1-0.5l7.1-1.3"/>
<path stroke="#4DBEEE" d="M43.8 132.2l7.1 0.7l7.1-0.3l7-2.3l7.1-3.7l7.1-4.5l7.1-3.4l7.1-2.3l7.1-1.6l7.1-1.1l7-0.9l7.1 1.4l7.1 5.1l7.1 5.3l7.1 0.5l7 1.7l7.1 1.1l7.1-1.9l7.1-1.4l7.1-16.3l7.1-22.3l7.1-15.6l7-7.1l7.1-3.5l7.1-2.9l7.1-1.2l7.1-1.8l7-1.8l7.1-0.9l7.1-1.1l7.1-1.4"/>
<path stroke="#A2142F" d="M43.8 140.5l7.1-0.4l7.1-1l7-2.8l7.1-4l7.1-5.2l7.1-4l7.1-3l7.1-2.1l7.1-1.3l7-2.1l7.1 1.1l7.1 5l7.1 3.7l7.1 2.6l7 1.9l7.1-1.4l7.1-1l7.1-0.9l7.1-18.6l7.1-23.2l7.1-15.3l7-8.2l7.1-3.4l7.1-1.9l7.1-2l7.1-1.9l7-1.5l7.1-1.9l7.1-0.4l7.1-2.1"/>
<path stroke="#0072BD" d="M43.8 103.9l7.1 3l7.1 2.8l7-2.6l7.1-6.7l7.1-7.1l7.1-6.3l7.1-3l7.1-3.9l7.1-1.9l7-2.2l7.1 0.2l7.1 3.6l7.1 2.9l7.1 1.5l7-0.7l7.1-2.3l7.1-2.1l7.1-6l7.1-16.2l7.1-17.3l7.1-9.3l7-5.6l7.1-1.5l7.1-1.3l7.1-1.3l7.1-0.3l7 0.3l7.1-0.3l7.1 0.1l7.1 0.7"/>
<path stroke="#D95319" d="M43.8 128.7l7.1 0.1l7.1-0.3l7-1.3l7.1-4.7l7.1-6.8l7.1-5.1l7.1-3.9l7.1-3.4l7.1-2.9l7-2.1l7.1-0.9l7.1 4.1l7.1 3.9l7.1 0.7l7-2l7.1-4.5l7.1-0.6l7.1-4.1l7.1-18l7.1-19.8l7.1-11.7l7-6.1l7.1-3.1l7.1-2.2l7.1-0.4l7.1-0.4l7-0.5l7.1-0.3l7.1-0.8l7.1 0.6"/>
<path stroke="#EDB120" d="M43.8 131.6l7.1-0.5l7.1-1.4l7-2.3l7.1-4.2l7.1-5l7.1-5.8l7.1-4.5l7.1-2.9l7.1-2.2l7-1.1l7.1 0.1l7.1 5.3l7.1 3.6l7.1 2.2l7-1.2l7.1-2.6l7.1-0.9l7.1-3.9l7.1-18.5l7.1-20.3l7.1-13.8l7-7l7.1-3.3l7.1-1.6l7.1-1.9l7.1-2.4l7-1.6l7.1-2.5l7.1-0.8l7.1-2"/>
<path stroke="#7E2F8E" d="M43.8 123.8l7.1 0.7l7.1 0.2l7-1.6l7.1-4.6l7.1-4.7l7.1-4.8l7.1-1.5l7.1-1.3l7.1-1.7l7-0.5l7.1 1.5l7.1 5.2l7.1 4.6l7.1 0.6l7 1.9l7.1 2l7.1-2.1l7.1-1.7l7.1-14.9l7.1-21l7.1-15.2l7-6l7.1-3.5l7.1-1.2l7.1-2l7.1-0.9l7-1.1l7.1-0.9l7.1-1.3l7.1-0.9"/>
<path stroke="#77AC30" d="M43.8 120.8l7.1 1.7l7.1 1.4l7-0.6l7.1-3.7l7.1-3.6l7.1-2.6l7.1-1.3l7.1-1.9l7.1-1.1l7 0.2l7.1 0.4l7.1 6.4l7.1 5.6l7.1 2.5l7 0.1l7.1-0.5l7.1 0.5l7.1-1.5l7.1-17.9l7.1-24l7.1-15.3l7-7.7l7.1-3l7.1-2.2l7.1-1.7l7.1-1.1l7-0.6l7.1-0.3l7.1-1.7l7.1 0.2"/>
<path stroke="#4DBEEE" d="M43.8 142l7.1-0.9l7.1-0.8l7-3.3l7.1-3.3l7.1-5.8l7.1-5l7.1-2.8l7.1-3.7l7.1-3.8l7-2.4l7.1-1.1l7.1 3.7l7.1 4.1l7.1 0.5l7-0.6l7.1-2.6l7.1-1.5l7.1-3.2l7.1-18.5l7.1-21.9l7.1-13.1l7-6.9l7.1-3l7.1-2.4l7.1-1.9l7.1-1.3l7-1.3l7.1 0.1l7.1-1l7.1-0.1"/>
<path stroke="#A2142F" d="M43.8 126.9l7.1 0.4l7.1-0.7l7-1.8l7.1-6.1l7.1-5.5l7.1-4.4l7.1-3.3l7.1-2.2l7.1-3.3l7-1.7l7.1 0.5l7.1 4.5l7.1 5.7l7.1 2.1l7-0.5l7.1-3.1l7.1-0.2l7.1-3.4l7.1-18.3l7.1-21.7l7.1-13.9l7-7.2l7.1-2.6l7.1-2.8l7.1-2.5l7.1-0.7l7-2l7.1-2l7.1-0.9l7.1-1.7"/>
<path stroke="#0072BD" d="M43.8 134.8l7.1-0.1l7.1-1.4l7-2.6l7.1-4.1l7.1-5.7l7.1-5.2l7.1-3.5l7.1-3l7.1-1.1l7-2.2l7.1-0.7l7.1 4.5l7.1 5.1l7.1 2.5l7-1.7l7.1-2.4l7.1-0.9l7.1-1.2l7.1-18l7.1-20.7l7.1-14.6l7-7.3l7.1-2.8l7.1-0.8l7.1-2.5l7.1-0.3l7-0.5l7.1-0.2l7.1-0.9l7.1-0.8"/>
<path stroke="#D95319" d="M43.8 116.8l7.1 1.8l7.1 1.7l7-2.3l7.1-5l7.1-5.2l7.1-5.6l7.1-2.6l7.1-1.8l7.1-1.5l7-1.8l7.1 0.4l7.1 4.6l7.1 4.5l7.1 4.1l7 0l7.1-4.7l7.1 2.4l7.1-0.5l7.1-18.5l7.1-18.6l7.1-13.4l7-7.1l7.1-1.6l7.1-1.4l7.1-2l7.1-0.7l7-0.1l7.1-0.9l7.1-0.4l7.1-0.5"/>
<path stroke="#EDB120" d="M43.8 115.1l7.1 1.8l7.1 0.1l7-1.9l7.1-7l7.1-6.6l7.1-5.1l7.1-4.7l7.1-3.9l7.1-4l7-1.4l7.1-0.7l7.1 3.5l7.1 4.2l7.1 2.4l7-0.7l7.1-5l7.1-0.9l7.1-5l7.1-18.5l7.1-16.9l7.1-10.7l7-5.8l7.1-2.2l7.1-3.2l7.1-0.9l7.1-1.2l7-2.2l7.1-1.6l7.1-1.3l7.1-1.5"/>
<path stroke="#7E2F8E" d="M43.8 122.1l7.1 1.1l7.1-0.5l7-2.8l7.1-5.4l7.1-6.2l7.1-5.3l7.1-2.4l7.1-2.4l7.1-2l7-1.5l7.1 1.4l7.1 5.2l7.1 6l7.1 3.3l7 0.8l7.1-4.8l7.1 1.8l7.1-2.8l7.1-17.9l7.1-19.9l7.1-14.2l7-6l7.1-3.3l7.1-3.1l7.1-0.3l7.1-1.5l7-0.5l7.1-2.1l7.1-0.9l7.1-0.9"/>
<path stroke="#77AC30" d="M43.8 118.4l7.1 0.6l7.1-0.5l7-2.6l7.1-5.6l7.1-7.3l7.1-5.5l7.1-2.8l7.1-2.8l7.1-2.5l7-2.5l7.1-0.2l7.1 3.9l7.1 3.6l7.1 1.1l7 0.9l7.1-1.5l7.1-3l7.1-4.5l7.1-16.2l7.1-18.3l7.1-12.8l7-5.7l7.1-2.6l7.1-1.4l7.1-1.5l7.1-1.4l7-1.1l7.1-1.5l7.1-1.3l7.1-1.8"/>
<path stroke="#4DBEEE" d="M43.8 114.2l7.1 2.8l7.1 0.6l7-0.6l7.1-4.8l7.1-5.4l7.1-4.8l7.1-3l7.1-1.2l7.1-0.9l7-1.4l7.1 2l7.1 3.9l7.1 5.9l7.1 3.9l7-0.7l7.1-2.4l7.1 0.2l7.1 0.3l7.1-19.3l7.1-19.3l7.1-12.6l7-7.2l7.1-2.2l7.1-1.4l7.1-1.3l7.1-0.1l7-1.4l7.1-0.5l7.1 0.5l7.1-0.2"/>
<path stroke="#A2142F" d="M43.8 135.8l7.1 0.6l7.1-0.4l7-1.4l7.1-3.2l7.1-3.2l7.1-3.6l7.1-1.8l7.1-1.8l7.1-2.4l7 0l7.1 0.1l7.1 5.9l7.1 4.6l7.1 1.1l7 0l7.1-2l7.1-1.6l7.1-1.8l7.1-18.3l7.1-22.5l7.1-15.4l7-8.9l7.1-3.3l7.1-3.6l7.1-1.6l7.1-1.7l7-1.7l7.1-1.1l7.1-1.3l7.1-0.7"/>
<path stroke="#0072BD" d="M43.8 107l7.1 3.5l7.1 1.5l7-1.1l7.1-5.6l7.1-6.7l7.1-4.3l7.1-3.1l7.1-1.3l7.1-2.9l7-2l7.1-0.6l7.1 4.4l7.1 5.1l7.1 2.1l7-0.4l7.1-2.1l7.1-0.6l7.1-5.2l7.1-17.4l7.1-17.5l7.1-11.9l7-6.1l7.1-1.9l7.1-2.3l7.1-1.3l7.1 0l7-1l7.1-1.4l7.1-0.6l7.1-0.9"/>
<path stroke="#D95319" d="M43.8 99.3l7.1 3.6l7.1 1.8l7-1.3l7.1-6.2l7.1-6.5l7.1-4.5l7.1-3l7.1 0.1l7.1-2.3l7-0.7l7.1 1l7.1 5.2l7.1 5.7l7.1 4l7-0.3l7.1-2.9l7.1 1.1l7.1-2l7.1-17.2l7.1-17.8l7.1-11l7-6.3l7.1-2.7l7.1-1.7l7.1-1l7.1-0.6l7-1l7.1-1.4l7.1-0.5l7.1-0.2"/>
<path stroke="#EDB120" d="M43.8 127.5l7.1 1.6l7.1-0.3l7-1.8l7.1-4.7l7.1-4.7l7.1-4l7.1-2.7l7.1-2.5l7.1-1.3l7-1.9l7.1 0.3l7.1 4.8l7.1 4.1l7.1 1l7 1.2l7.1-2.1l7.1-2.1l7.1-3l7.1-18l7.1-20.8l7.1-14l7-7.5l7.1-2.8l7.1-3.6l7.1-2.2l7.1-1.4l7-1.7l7.1-0.2l7.1-0.8l7.1-1.5"/>
<path stroke="#7E2F8E" d="M43.8 111.2l7.1 3.6l7.1 0.1l7-1.5l7.1-6.3l7.1-5.4l7.1-5.1l7.1-2.4l7.1-2.8l7.1-1.1l7-0.5l7.1 0.2l7.1 5.5l7.1 5.3l7.1 3.2l7 0l7.1-1.1l7.1-0.5l7.1-3.9l7.1-17l7.1-19.3l7.1-12.5l7-5.1l7.1-4.2l7.1-2.3l7.1-1.2l7.1-1.2l7-0.9l7.1-0.4l7.1-0.2l7.1-1.1"/>
<path stroke="#77AC30" d="M43.8 117l7.1 1.9l7.1 0.8l7-1.5l7.1-5.5l7.1-4.9l7.1-5.4l7.1-3.6l7.1-3.6l7.1-1.6l7-1.4l7.1-0.8l7.1 5.2l7.1 4l7.1 1.6l7 0.3l7.1-2.2l7.1-1.2l7.1-3.2l7.1-17.3l7.1-18.5l7.1-13.7l7-5.8l7.1-3.1l7.1-1.9l7.1-1.6l7.1-0.4l7-1.5l7.1-1l7.1-0.9l7.1-0.9"/>
<path stroke="#4DBEEE" d="M43.8 113.4l7.1 2.4l7.1 0.6l7-2.2l7.1-5.1l7.1-5.8l7.1-5l7.1-3.4l7.1-1.9l7.1-2.4l7-1.2l7.1 0.6l7.1 4.6l7.1 4.5l7.1 1l7 0.7l7.1 1l7.1-2.5l7.1-3.4l7.1-15.9l7.1-19l7.1-12.7l7-5.5l7.1-3.4l7.1-1.5l7.1-1.3l7.1-0.4l7-1.7l7.1-0.4l7.1-1l7.1 0.1"/>
<path stroke="#A2142F" d="M43.8 97.9l7.1 3.5l7.1 2.5l7-0.9l7.1-6.1l7.1-6l7.1-5.1l7.1-2.6l7.1-2.1l7.1-1.9l7-0.9l7.1 0.9l7.1 4.1l7.1 4.6l7.1 1.8l7-0.1l7.1-2.1l7.1 0.8l7.1-5.2l7.1-16.4l7.1-18.1l7.1-12.3l7-5.6l7.1-3.2l7.1-2.4l7.1-2.6l7.1-1.6l7-1.8l7.1-1.6l7.1-2.4l7.1-3"/>
<path stroke="#0072BD" d="M43.8 115.2l7.1 2.6l7.1 0.9l7-0.9l7.1-3.9l7.1-5l7.1-4.2l7.1-2.3l7.1-1.5l7.1-0.1l7-0.9l7.1 1.8l7.1 5.5l7.1 6.8l7.1 4.8l7 1.2l7.1-2.6l7.1 2.8l7.1 1.3l7.1-17.5l7.1-21.1l7.1-15.2l7-7.3l7.1-3l7.1-1l7.1-0.2l7.1-0.6l7-1.3l7.1-0.5l7.1-0.9l7.1-1.4"/>
<path stroke="#D95319" d="M43.8 98.3l7.1 3.3l7.1 1.6l7-1.3l7.1-7.3l7.1-6.8l7.1-6l7.1-4.1l7.1-2.4l7.1-2.3l7-1.7l7.1-0.2l7.1 5.5l7.1 4.4l7.1 3.1l7-0.4l7.1-3.4l7.1 1.5l7.1-2.9l7.1-16.9l7.1-16.6l7.1-9.7l7-5.5l7.1-1.7l7.1-0.9l7.1-1.1l7.1 0l7-0.7l7.1-0.3l7.1 0.7l7.1-1.6"/>
<path stroke="#EDB120" d="M43.8 121.5l7.1 1.7l7.1 1.2l7-0.9l7.1-3.6l7.1-5.5l7.1-3.8l7.1-2.2l7.1-1.5l7.1-2.2l7-1.1l7.1 0.5l7.1 4.4l7.1 5.5l7.1 3.7l7-1.1l7.1-3.4l7.1 1.5l7.1-1.6l7.1-20.4l7.1-21.7l7.1-13.5l7-6.8l7.1-2.4l7.1-2.8l7.1-1.2l7.1-1.5l7-1.7l7.1-1l7.1-1.3l7.1-1.6"/>
<path stroke="#7E2F8E" d="M43.8 121.5l7.1 2.5l7.1 0.8l7-1.9l7.1-4.6l7.1-4.3l7.1-3l7.1-1.4l7.1-2.8l7.1-1.6l7-1.1l7.1 0.8l7.1 5.7l7.1 5.3l7.1 3.3l7 0.1l7.1-1.9l7.1 1.7l7.1-0.4l7.1-18.4l7.1-20l7.1-15.2l7-7.2l7.1-2.9l7.1-1.7l7.1-1.4l7.1-1.4l7-0.8l7.1-0.1l7.1 0.1l7.1-1.3"/>
<path stroke="#77AC30" d="M43.8 134.9l7.1 0.3l7.1-0.4l7-0.8l7.1-3.8l7.1-5.4l7.1-3.7l7.1-2.9l7.1-2.6l7.1-2.6l7-1.8l7.1-0.5l7.1 5.2l7.1 4.5l7.1 4.1l7-1.4l7.1-4.1l7.1 0.3l7.1-1.7l7.1-20.3l7.1-21.8l7.1-13.9l7-7.5l7.1-3.5l7.1-2.5l7.1-1.2l7.1-1.1l7-1.6l7.1-1.3l7.1-1.3l7.1-1.4"/>
<path stroke="#4DBEEE" d="M43.8 128.6l7.1 0.9l7.1 0.3l7-3l7.1-4.2l7.1-4.8l7.1-3.5l7.1-2.3l7.1-2.6l7.1-2l7-0.9l7.1 0.5l7.1 5.4l7.1 5.8l7.1 2.3l7 0.7l7.1-1.7l7.1 0.7l7.1-1.5l7.1-18.1l7.1-21.1l7.1-15.4l7-6.7l7.1-3.1l7.1-1.4l7.1-2.2l7.1-1.6l7-0.8l7.1-1.3l7.1-1.4l7.1-1"/>
<path stroke="#A2142F" d="M43.8 140.8l7.1-2.2l7.1-1.6l7-3.3l7.1-5.8l7.1-5.8l7.1-5.9l7.1-4.4l7.1-4.2l7.1-4.5l7-3.4l7.1-0.8l7.1 2.6l7.1 2.9l7.1 0.5l7-2.6l7.1-4.9l7.1-2.1l7.1-5.6l7.1-18l7.1-19.3l7.1-11.2l7-7.3l7.1-2.8l7.1-2.8l7.1-2.4l7.1-1.3l7-1.8l7.1-1.7l7.1-1.6l7.1-2.1"/>
<path stroke="#0072BD" d="M43.8 113.8l7.1 0.9l7.1-0.1l7-2l7.1-6.4l7.1-6.7l7.1-5.4l7.1-4.4l7.1-2.7l7.1-2.9l7-3.1l7.1 0.3l7.1 4.7l7.1 3.5l7.1 1.7l7-1.3l7.1-3.6l7.1-1l7.1-4.4l7.1-17.6l7.1-16.7l7.1-11.1l7-5.9l7.1-2.8l7.1-2.3l7.1-1.7l7.1-1.1l7-1.8l7.1-1.2l7.1-1.3l7.1-2"/>
<path stroke="#D95319" d="M43.8 144.6l7.1-2.1l7.1-3.3l7-3.1l7.1-3.8l7.1-6l7.1-5.1l7.1-4.7l7.1-3.1l7.1-2.8l7-2.1l7.1-0.6l7.1 4.5l7.1 4.5l7.1 2.2l7 0l7.1-3l7.1-0.1l7.1-1.6l7.1-19.2l7.1-22l7.1-13.9l7-7.7l7.1-3.6l7.1-3.2l7.1-2.3l7.1-3.5l7-1.4l7.1-2.5l7.1-1.8l7.1-2.9"/>
<path stroke="#EDB120" d="M43.8 117.5l7.1 2.2l7.1 0.9l7-1.4l7.1-4.5l7.1-6.4l7.1-4.5l7.1-2.5l7.1-2.3l7.1-1.5l7-0.8l7.1-0.2l7.1 5l7.1 5.1l7.1 0.9l7 0.6l7.1-3.3l7.1 0.6l7.1-1.7l7.1-16l7.1-19.5l7.1-13.1l7-6.3l7.1-2.3l7.1-2.4l7.1-0.8l7.1-1.6l7-1.1l7.1-1.6l7.1-0.3l7.1-0.5"/>
<path stroke="#7E2F8E" d="M43.8 128.1l7.1 0.3l7.1 0l7-2l7.1-4.6l7.1-6l7.1-5.4l7.1-3.4l7.1-3l7.1-3.3l7-2l7.1-0.4l7.1 3.1l7.1 4.2l7.1 1.5l7-1l7.1-3.7l7.1-0.6l7.1-2.7l7.1-18.9l7.1-19.1l7.1-13.4l7-6l7.1-2.1l7.1-1l7.1-1.7l7.1-1.6l7-0.9l7.1-0.7l7.1-0.6l7.1-1.5"/>
<path stroke="#77AC30" d="M43.8 122.2l7.1 1.1l7.1 1.1l7-1.6l7.1-3.7l7.1-3.7l7.1-3.5l7.1-2.4l7.1-1.8l7.1-1.4l7-1.1l7.1 1.4l7.1 5.3l7.1 6.2l7.1 3.8l7 0.3l7.1-2.1l7.1-0.7l7.1-1.6l7.1-17.3l7.1-21.3l7.1-14.8l7-7.6l7.1-2.5l7.1-1.7l7.1-1.5l7.1-1.7l7-1.5l7.1-0.4l7.1-1.2l7.1-1"/>
<path stroke="#4DBEEE" d="M43.8 129.4l7.1 0.3l7.1-1.1l7-1.8l7.1-5.4l7.1-5.5l7.1-5.5l7.1-3.4l7.1-2l7.1-2.3l7-3.1l7.1-0.1l7.1 3.5l7.1 3.7l7.1 2.5l7-2.6l7.1-4.5l7.1-0.8l7.1-4.4l7.1-18.6l7.1-19.2l7.1-11.8l7-6.3l7.1-2.9l7.1-1.6l7.1-2.4l7.1-1.2l7-1l7.1-0.7l7.1-0.7l7.1-0.8"/>
<path stroke="#A2142F" d="M43.8 121.9l7.1 2.1l7.1 1.1l7-0.9l7.1-4.5l7.1-3.6l7.1-3l7.1-2.7l7.1-1.8l7.1-1.5l7-0.6l7.1 0.8l7.1 6l7.1 5.6l7.1 2.8l7 0l7.1-2.7l7.1 1.9l7.1-0.3l7.1-19.3l7.1-20.8l7.1-14.1l7-6.2l7.1-2.6l7.1-1.6l7.1-2.2l7.1-0.7l7-1l7.1 0.2l7.1-0.3l7.1-1.9"/>
<path stroke="#0072BD" d="M43.8 144.2l7.1-1.2l7.1-1.3l7-2.3l7.1-3.4l7.1-4.7l7.1-3.5l7.1-2.4l7.1-2.9l7.1-1.5l7-1.6l7.1 0.1l7.1 4.4l7.1 4.3l7.1 2.4l7-3.1l7.1-5.6l7.1 0.6l7.1-2.3l7.1-21l7.1-24.1l7.1-15.5l7-8.3l7.1-4l7.1-3.1l7.1-2.2l7.1-1.6l7-2.9l7.1-1.6l7.1-1.9l7.1-1.8"/>
<path stroke="#D95319" d="M43.8 127.9l7.1 1.3l7.1 1.1l7-1.2l7.1-3.1l7.1-3.2l7.1-3.8l7.1-3.3l7.1-1.8l7.1-1.9l7-1.1l7.1 0.3l7.1 4.7l7.1 4.4l7.1 0.9l7 1.6l7.1-1.1l7.1-4l7.1-2.7l7.1-15.6l7.1-22.2l7.1-14.8l7-7.5l7.1-4l7.1-2.4l7.1-0.6l7.1-0.5l7-1.5l7.1 0.1l7.1-0.9l7.1-0.3"/>
<path stroke="#EDB120" d="M43.8 101.3l7.1 4.2l7.1 2.4l7-1.1l7.1-4.9l7.1-6l7.1-4.9l7.1-3.2l7.1-2.3l7.1-2.4l7-1.3l7.1 0.4l7.1 5.2l7.1 3.4l7.1 2.5l7-0.1l7.1-1.4l7.1-0.5l7.1-2.9l7.1-17l7.1-17.4l7.1-11.1l7-5.3l7.1-2.3l7.1-1.4l7.1-1.5l7.1-0.2l7-0.5l7.1-0.2l7.1-1.1l7.1 0.7"/>
<path stroke="#7E2F8E" d="M43.8 126.6l7.1-0.9l7.1-0.9l7-1.9l7.1-6.1l7.1-6.6l7.1-4.6l7.1-3.1l7.1-3.1l7.1-2.2l7-3.3l7.1-0.2l7.1 4.1l7.1 4.2l7.1 2.3l7-2.1l7.1-5.4l7.1-1.3l7.1-4.6l7.1-19.1l7.1-18.8l7.1-13.5l7-5.9l7.1-4.2l7.1-2.2l7.1-3.3l7.1-2.1l7-1.3l7.1-2.8l7.1-2.1l7.1-1.5"/>
<path stroke="#77AC30" d="M43.8 126.6l7.1 0.8l7.1-1.7l7-2.6l7.1-5.4l7.1-5.3l7.1-4.6l7.1-2.9l7.1-1.3l7.1-1.4l7-1l7.1 0.4l7.1 4.3l7.1 3.6l7.1 2.5l7 0l7.1-2.7l7.1 0.3l7.1-1.6l7.1-17.2l7.1-19.7l7.1-14l7-5.1l7.1-3.1l7.1-0.5l7.1-2.2l7.1-1.2l7 0l7.1-1l7.1-0.4l7.1-1"/>
<path stroke="#4DBEEE" d="M43.8 118.3l7.1 1.1l7.1 1l7-1.7l7.1-5.1l7.1-5.6l7.1-4.8l7.1-2.8l7.1-2.7l7.1-1.5l7-1.9l7.1 0l7.1 5.5l7.1 3l7.1 1.6l7-1.8l7.1-3.2l7.1-0.9l7.1-4.7l7.1-17.8l7.1-18.7l7.1-12.3l7-6.6l7.1-2l7.1-2.5l7.1-1.9l7.1-1l7-1.6l7.1-1.7l7.1-0.6l7.1-1.5"/>
<path stroke="#A2142F" d="M43.8 143.9l7.1-1l7.1-1.2l7-2.4l7.1-3.3l7.1-4.4l7.1-3.7l7.1-2.7l7.1-2l7.1-2.1l7-1.5l7.1 0.2l7.1 4.9l7.1 5.4l7.1 1.6l7 0.9l7.1-0.7l7.1-1.3l7.1-1.5l7.1-17.6l7.1-23.6l7.1-16l7-9l7.1-3l7.1-2.6l7.1-1.6l7.1-1.2l7-0.8l7.1-1.1l7.1-1.5l7.1 0"/>
<path stroke="#0072BD" d="M43.8 142.9l7.1-0.5l7.1-1.7l7-1.5l7.1-4.2l7.1-5.3l7.1-4.6l7.1-3.2l7.1-2.7l7.1-2.6l7-1.3l7.1 0.6l7.1 4.1l7.1 3.7l7.1 0.8l7 1l7.1-1.4l7.1-1.2l7.1-2.7l7.1-18.5l7.1-21.6l7.1-14.8l7-7.3l7.1-3.3l7.1-2l7.1-2.1l7.1-1.3l7-1.2l7.1-0.5l7.1 0.1l7.1-1"/>
<path stroke="#D95319" d="M43.8 121.5l7.1 1.1l7.1 0l7-2.2l7.1-6.9l7.1-5.9l7.1-5.9l7.1-3.7l7.1-3.9l7.1-2.7l7-2.3l7.1-0.8l7.1 3.8l7.1 3.2l7.1 2.4l7-2.2l7.1-5.1l7.1 0.7l7.1-3.1l7.1-18.5l7.1-17.1l7.1-11.8l7-4.6l7.1-2.6l7.1-0.9l7.1-0.1l7.1-1.8l7-0.7l7.1-0.9l7.1-0.6l7.1-0.9"/>
<path stroke="#EDB120" d="M43.8 112l7.1 3.5l7.1 1.7l7-0.8l7.1-4.3l7.1-5.8l7.1-3.9l7.1-1.6l7.1-1.2l7.1-0.2l7-1.3l7.1-0.1l7.1 4.8l7.1 5.4l7.1 2.3l7-1.1l7.1-1.8l7.1-1.6l7.1-3.8l7.1-18.1l7.1-21.4l7.1-12.7l7-6.5l7.1-3.4l7.1-1.8l7.1-1l7.1-1.3l7-0.6l7.1-1.2l7.1-0.4l7.1-1.9"/>
<path stroke="#7E2F8E" d="M43.8 103.2l7.1 3.9l7.1 2.3l7 0l7.1-5l7.1-5.9l7.1-4.4l7.1-1.6l7.1-1.5l7.1-1l7-1l7.1 1.5l7.1 6.1l7.1 5.6l7.1 3.1l7 0.5l7.1-1.6l7.1 1l7.1-0.5l7.1-15.5l7.1-19.9l7.1-13.7l7-5.8l7.1-2.2l7.1-0.4l7.1-0.7l7.1-0.7l7-0.1l7.1 0.5l7.1-0.7l7.1 0.5"/>
<path stroke="#77AC30" d="M43.8 107.4l7.1 3.5l7.1 0.5l7-1l7.1-6.7l7.1-6.4l7.1-4.3l7.1-3.4l7.1-1.9l7.1-2.1l7-2l7.1 0.7l7.1 4.2l7.1 4.6l7.1 1.1l7 0.1l7.1 0.8l7.1-3.1l7.1-5.3l7.1-15.8l7.1-17.1l7.1-11.3l7-5.3l7.1-2.1l7.1-1.4l7.1-1.5l7.1-1.2l7-0.3l7.1-1l7.1-1.5l7.1-0.4"/>
<path stroke="#4DBEEE" d="M43.8 132.6l7.1-0.8l7.1-2.1l7-2.2l7.1-3.1l7.1-5.4l7.1-4.7l7.1-3l7.1-2.9l7.1-1.9l7-0.9l7.1 0.7l7.1 4.4l7.1 5.1l7.1 0.1l7 0.7l7.1-0.7l7.1-3.2l7.1-3l7.1-16.3l7.1-21.9l7.1-14.4l7-7.6l7.1-3l7.1-2.4l7.1-2.1l7.1-1.5l7-1.3l7.1-0.7l7.1-0.6l7.1-0.9"/>
<path stroke="#A2142F" d="M43.8 98l7.1 3.5l7.1 1.4l7-0.1l7.1-5.6l7.1-5.3l7.1-4.4l7.1-3l7.1-1.2l7.1 0.2l7-0.7l7.1 0.5l7.1 5.3l7.1 3.9l7.1 4.3l7-0.7l7.1-2.9l7.1 0.8l7.1-3.3l7.1-18.1l7.1-18.5l7.1-11.9l7-6.2l7.1-3.8l7.1-2.3l7.1-2.4l7.1-2l7-1.4l7.1-2.2l7.1-1.2l7.1-2.5"/>
<path stroke="#0072BD" d="M43.8 115.1l7.1 1.5l7.1 0.5l7-2.4l7.1-6.8l7.1-6l7.1-3.3l7.1-3.6l7.1-2.5l7.1-2.6l7-2.7l7.1 0l7.1 2.9l7.1 4.5l7.1 1.6l7-1.3l7.1-2.4l7.1-1l7.1-4l7.1-16.7l7.1-17.9l7.1-12.6l7-5.6l7.1-3.1l7.1-3l7.1-1l7.1-2.2l7-1.2l7.1-1.6l7.1-0.9l7.1-1.7"/>
<path stroke="#D95319" d="M43.8 130.7l7.1 0.6l7.1 0.5l7-2.7l7.1-4l7.1-4.7l7.1-3.4l7.1-2.1l7.1-2.2l7.1-1.6l7-1.2l7.1 0.7l7.1 4.9l7.1 5.6l7.1 3.8l7-0.5l7.1-2.3l7.1 1.6l7.1-1.4l7.1-18.7l7.1-22.2l7.1-14.8l7-8l7.1-3.5l7.1-2.3l7.1-1.7l7.1-0.9l7-1.7l7.1-0.5l7.1-1l7.1-1.5"/>
<path stroke="#EDB120" d="M43.8 134l7.1 0.4l7.1-1.6l7-2.3l7.1-5.2l7.1-4l7.1-4.5l7.1-3.8l7.1-3.4l7.1-2.6l7-1.1l7.1-0.1l7.1 4.5l7.1 4.1l7.1 2.5l7-0.3l7.1-2.5l7.1-1.6l7.1-2.2l7.1-18.2l7.1-20l7.1-15l7-7.4l7.1-3.2l7.1-1.7l7.1-2.6l7.1-1.4l7-2.1l7.1-1l7.1-1.4l7.1-1.6"/>
<path stroke="#7E2F8E" d="M43.8 126.8l7.1 1.7l7.1-0.9l7-2.4l7.1-5.3l7.1-5.5l7.1-4.5l7.1-2.8l7.1-2l7.1-1.9l7-1.8l7.1 0.5l7.1 4.6l7.1 4.5l7.1 2.1l7-0.2l7.1-0.8l7.1 0.6l7.1-0.6l7.1-16.2l7.1-20.7l7.1-14.4l7-6.6l7.1-2.4l7.1-0.6l7.1-2.1l7.1-0.4l7-0.9l7.1-0.5l7.1 0.7l7.1-0.4"/>
<path stroke="#77AC30" d="M43.8 118.5l7.1 0.4l7.1 0.6l7-3.4l7.1-6.8l7.1-6.9l7.1-5.7l7.1-4.8l7.1-3.4l7.1-3.1l7-1.9l7.1-1.2l7.1 4l7.1 3.5l7.1 1.3l7-0.3l7.1-0.5l7.1-3.4l7.1-4.6l7.1-16.1l7.1-17.4l7.1-9.8l7-5.3l7.1-2.1l7.1-1.9l7.1-0.2l7.1-1.7l7 0.4l7.1-0.2l7.1-0.5l7.1-1.4"/>
<path stroke="#4DBEEE" d="M43.8 122.6l7.1 2.1l7.1 1.1l7-2.4l7.1-3.7l7.1-5l7.1-3.5l7.1-2.3l7.1-1.7l7.1-1.5l7-1.6l7.1 1.9l7.1 5.7l7.1 5l7.1 3.2l7 0.9l7.1-2.6l7.1 0.5l7.1-1.6l7.1-17.8l7.1-21.6l7.1-13.9l7-5.9l7.1-2.7l7.1-2.2l7.1-1.5l7.1-0.6l7-0.7l7.1-0.2l7.1 0.2l7.1-0.3"/>
<path stroke="#A2142F" d="M43.8 111l7.1 1.5l7.1 0.1l7-2.1l7.1-7.9l7.1-7.5l7.1-6.3l7.1-4.1l7.1-3.1l7.1-2.9l7-2l7.1 0.1l7.1 3.1l7.1 3.6l7.1 4.8l7-2l7.1-4.5l7.1 0.4l7.1-4.7l7.1-16.7l7.1-18.1l7.1-10.2l7-5l7.1-2.7l7.1-2.3l7.1-1.7l7.1-1.6l7-1l7.1-0.7l7.1-1.2l7.1-0.8"/>
<path stroke="#0072BD" d="M43.8 102.8l7.1 2.9l7.1 1.9l7-1l7.1-6.4l7.1-6l7.1-5.1l7.1-2.5l7.1-1.9l7.1-2.8l7-2l7.1 0.8l7.1 4.9l7.1 4.4l7.1-1.5l7 1.1l7.1 2.1l7.1-3.9l7.1-6.1l7.1-12.6l7.1-16.7l7.1-11.5l7-6.1l7.1-3.2l7.1-0.6l7.1-1.6l7.1-0.2l7-1l7.1-0.6l7.1-0.2l7.1-0.9"/>
<path stroke="#D95319" d="M43.8 100.6l7.1 3.7l7.1 1.5l7-1l7.1-6.4l7.1-7l7.1-5l7.1-4l7.1-2.6l7.1-2.4l7-0.6l7.1-0.1l7.1 4l7.1 4l7.1 4l7-2.9l7.1-4.8l7.1 1.4l7.1-3.2l7.1-18.4l7.1-16.9l7.1-10.8l7-5l7.1-2.8l7.1-1.9l7.1-1.3l7.1-1.7l7-0.6l7.1-1l7.1-0.6l7.1-1.4"/>
<path stroke="#EDB120" d="M43.8 134.5l7.1-0.4l7.1-2.2l7-2.4l7.1-5l7.1-4.9l7.1-5l7.1-3.1l7.1-2.6l7.1-2.4l7-1.8l7.1 0.3l7.1 4.9l7.1 2.2l7.1 0.7l7-0.1l7.1-1.1l7.1-3.7l7.1-3.7l7.1-17.4l7.1-20l7.1-13.9l7-7.5l7.1-3l7.1-3.2l7.1-1.8l7.1-1.3l7-1.1l7.1-2.1l7.1-0.9l7.1-1.3"/>
<path stroke="#7E2F8E" d="M43.8 136.7l7.1-1.1l7.1-1l7-3.8l7.1-4.7l7.1-6.6l7.1-4.1l7.1-4.5l7.1-4l7.1-1.9l7-1.4l7.1 0.4l7.1 4.4l7.1 5.7l7.1 3.3l7-0.2l7.1-2.9l7.1 3.6l7.1-0.5l7.1-17.2l7.1-21l7.1-13.6l7-6.5l7.1-2.9l7.1-1.4l7.1-0.7l7.1-0.8l7-1l7.1-0.5l7.1 0.4l7.1-0.8"/>
<path stroke="#77AC30" d="M43.8 110.2l7.1 2.6l7.1 0.2l7-1.1l7.1-6l7.1-7.2l7.1-5l7.1-3.3l7.1-3l7.1-2.8l7-2.6l7.1 1l7.1 3.7l7.1 3.6l7.1 1.8l7-1.1l7.1-1.9l7.1 0.3l7.1-5.2l7.1-16.6l7.1-16.4l7.1-12.3l7-5.6l7.1-3l7.1-2.8l7.1-1.9l7.1-1.1l7-2l7.1-0.1l7.1-1.2l7.1-1.5"/>
<path stroke="#4DBEEE" d="M43.8 117.8l7.1 1.7l7.1-0.2l7-1.4l7.1-4.4l7.1-6.4l7.1-4.6l7.1-3.4l7.1-2.2l7.1-2.1l7-1.9l7.1-0.1l7.1 4.3l7.1 4.7l7.1 1.4l7-1.4l7.1-4.6l7.1-0.4l7.1-4.4l7.1-19l7.1-19.9l7.1-11.5l7-6.7l7.1-3.6l7.1-1.8l7.1-2.2l7.1-2.1l7-1.1l7.1-2.1l7.1-1.3l7.1-1"/>
<path stroke="#A2142F" d="M43.8 132.6l7.1-0.2l7.1-0.1l7-1.9l7.1-4.6l7.1-5.7l7.1-4.7l7.1-3l7.1-3.1l7.1-1.2l7-2l7.1 0.5l7.1 4.6l7.1 4.4l7.1 2l7 0.1l7.1-1.5l7.1-0.8l7.1-2.2l7.1-17.3l7.1-21l7.1-13.9l7-7.2l7.1-1.9l7.1-2.5l7.1-1.4l7.1-0.4l7-1.1l7.1-0.4l7.1-0.8l7.1-0.6"/>
<path stroke="#0072BD" d="M43.8 113.8l7.1 1.5l7.1 0.4l7-1.4l7.1-6.3l7.1-6.6l7.1-6l7.1-2.7l7.1-2.6l7.1-1.9l7-2.5l7.1 0.2l7.1 3.9l7.1 4.3l7.1 1.3l7-0.6l7.1-2.5l7.1-2.4l7.1-4.2l7.1-18.9l7.1-16.8l7.1-13.3l7-5.1l7.1-3.6l7.1-2.5l7.1-1.9l7.1-3l7-0.5l7.1-1.3l7.1-1.8l7.1-2.5"/>
<path stroke="#D95319" d="M43.8 116.4l7.1 3.1l7.1 0.7l7-0.5l7.1-4.7l7.1-4.9l7.1-4.5l7.1-2.5l7.1-1l7.1-1.6l7-0.4l7.1 0.5l7.1 5.9l7.1 6l7.1 3.3l7 0.6l7.1-0.8l7.1 1.3l7.1-0.5l7.1-17.3l7.1-20.7l7.1-14.7l7-6.1l7.1-1.5l7.1-0.7l7.1-1.3l7.1-0.4l7 0.1l7.1 0l7.1-0.7l7.1-1"/>
<path stroke="#EDB120" d="M43.8 117.9l7.1 2.8l7.1-0.2l7-0.6l7.1-5.8l7.1-4.9l7.1-4.2l7.1-3.6l7.1-1.7l7.1-2.5l7-0.2l7.1 0.6l7.1 5.5l7.1 4.7l7.1 2.1l7 0.4l7.1-0.5l7.1-2.3l7.1-3l7.1-15.3l7.1-20.5l7.1-13.8l7-6.1l7.1-2.8l7.1-1.8l7.1-0.9l7.1-1.2l7-1.4l7.1-0.6l7.1-1l7.1-1.2"/>
<path stroke="#7E2F8E" d="M43.8 129l7.1 0.5l7.1 0.3l7-2l7.1-5l7.1-4.6l7.1-5.4l7.1-3.9l7.1-2.2l7.1-1.3l7-2l7.1 0.5l7.1 4.8l7.1 4.2l7.1 1.9l7-0.6l7.1-2.8l7.1 0.7l7.1-1.2l7.1-17.8l7.1-20.8l7.1-14.2l7-7.4l7.1-3.1l7.1-1l7.1-0.2l7.1-1l7-0.7l7.1-0.3l7.1-0.9l7.1 0"/>
<path stroke="#77AC30" d="M43.8 132.6l7.1 0.5l7.1-0.8l7-1.8l7.1-3.8l7.1-5.8l7.1-3.8l7.1-2.6l7.1-2.3l7.1-0.9l7-0.8l7.1 1.2l7.1 5.5l7.1 6.7l7.1 1.3l7 3.1l7.1-0.5l7.1 0.7l7.1-1l7.1-17l7.1-22.7l7.1-16l7-7.2l7.1-3.9l7.1-2.1l7.1-1.5l7.1-1.4l7-1l7.1-0.7l7.1-1l7.1-0.8"/>
<path stroke="#4DBEEE" d="M43.8 119.4l7.1 0.1l7.1-0.8l7-2.4l7.1-7l7.1-6.5l7.1-5l7.1-3.8l7.1-3l7.1-2l7-1.1l7.1 0.3l7.1 4.5l7.1 2.6l7.1-0.6l7 0.5l7.1 1.8l7.1-4.7l7.1-6l7.1-15.2l7.1-17.7l7.1-10.5l7-6.1l7.1-2.6l7.1-2.5l7.1-1.5l7.1-2l7-1.4l7.1-1.5l7.1-1.1l7.1-1.9"/>
<path stroke="#A2142F" d="M43.8 131l7.1-0.2l7.1-1.1l7-3.1l7.1-5.3l7.1-6.3l7.1-4.3l7.1-4.1l7.1-4l7.1-3.5l7-1.9l7.1-0.7l7.1 3.9l7.1 3.6l7.1 0.9l7-0.8l7.1-2.9l7.1-2.6l7.1-4.1l7.1-18.6l7.1-20l7.1-13.4l7-6.9l7.1-3l7.1-2.5l7.1-1.5l7.1-2.5l7-1.6l7.1-0.4l7.1-2.9l7.1-1.2"/>
<path stroke="#0072BD" d="M43.8 120.6l7.1 1.1l7.1-0.1l7-2.7l7.1-6.3l7.1-6.5l7.1-5.9l7.1-3.1l7.1-2.9l7.1-2.5l7-1.9l7.1-0.4l7.1 4.1l7.1 4.2l7.1 2l7-0.9l7.1-3.6l7.1-0.7l7.1-3.7l7.1-18.4l7.1-18.6l7.1-11.7l7-6.9l7.1-2.2l7.1-1.9l7.1-2.5l7.1-1.6l7-0.5l7.1-1.2l7.1-1.1l7.1-1"/>
<path stroke="#D95319" d="M43.8 139.7l7.1 0.2l7.1-0.8l7-2.5l7.1-4.6l7.1-4.3l7.1-4.1l7.1-4.1l7.1-2.1l7.1-2.7l7-3l7.1-0.4l7.1 3.2l7.1 4.3l7.1 0.7l7-2.9l7.1-4.5l7.1-0.8l7.1-3.9l7.1-20.4l7.1-20.9l7.1-14.5l7-7.7l7.1-4.2l7.1-2.8l7.1-2.6l7.1-2.8l7-2.1l7.1-1.7l7.1-2.1l7.1-1.7"/>
<path stroke="#EDB120" d="M43.8 129.7l7.1-0.3l7.1-1l7-2.8l7.1-5.9l7.1-5.3l7.1-6.4l7.1-4.6l7.1-3.7l7.1-3.3l7-2.4l7.1-1.3l7.1 2.9l7.1 3.2l7.1 1.1l7-2l7.1-5.7l7.1-1.5l7.1-3.4l7.1-18.6l7.1-18.4l7.1-11.8l7-6.7l7.1-3.6l7.1-2.6l7.1-2.2l7.1-2.6l7-1.7l7.1-2.3l7.1-1.4l7.1-3"/>
<path stroke="#7E2F8E" d="M43.8 113.1l7.1 1.9l7.1 0.7l7-1.8l7.1-6.3l7.1-6.6l7.1-4.3l7.1-3.3l7.1-3.7l7.1-2.1l7-1.9l7.1-0.4l7.1 2.8l7.1 4.3l7.1 1.8l7 0l7.1-0.8l7.1-1l7.1-3.3l7.1-16.4l7.1-17.4l7.1-11.4l7-5.7l7.1-1.5l7.1-1.9l7.1-1l7.1-0.7l7 0l7.1-0.6l7.1 0l7.1-0.9"/>
<path stroke="#77AC30" d="M43.8 118.8l7.1 1.6l7.1-1.2l7-2.5l7.1-5.6l7.1-5.9l7.1-6.1l7.1-2.9l7.1-2.4l7.1-2.7l7-2.9l7.1-1.1l7.1 5.2l7.1 3.5l7.1 3.1l7-2.5l7.1-3.8l7.1-0.1l7.1-3.5l7.1-17.4l7.1-17.6l7.1-11.9l7-6.3l7.1-3.6l7.1-1.5l7.1-1.9l7.1-2.1l7-1.4l7.1-1.8l7.1-0.9l7.1-1.9"/>
<path stroke="#4DBEEE" d="M43.8 127.3l7.1 0.6l7.1-0.8l7-0.8l7.1-5.3l7.1-4.2l7.1-5.3l7.1-3.5l7.1-1.6l7.1-1.6l7-1.8l7.1 0.7l7.1 4.8l7.1 4.4l7.1 2.4l7-0.4l7.1-2.5l7.1-0.8l7.1-1.9l7.1-18.1l7.1-20.8l7.1-14l7-7l7.1-2.5l7.1-2l7.1-1.6l7.1-1.1l7-1l7.1-1.3l7.1-1.4l7.1-1.1"/>
<path stroke="#A2142F" d="M43.8 123.1l7.1 0.8l7.1 0.6l7-2.1l7.1-5.7l7.1-5.5l7.1-4.8l7.1-3.8l7.1-1.8l7.1-2.4l7-1.2l7.1-0.4l7.1 6l7.1 3.9l7.1 1l7 1.3l7.1-1.3l7.1-1.3l7.1-2.4l7.1-16.8l7.1-20.2l7.1-13.8l7-6.5l7.1-2.9l7.1-3.1l7.1-0.7l7.1-1.9l7-0.8l7.1-1.2l7.1-1.2l7.1-1.1"/>
<path stroke="#0072BD" d="M43.8 141.8l7.1-0.1l7.1-1.9l7-2.9l7.1-4.3l7.1-5.2l7.1-4.2l7.1-3.4l7.1-3.6l7.1-2.4l7-2.8l7.1 0.4l7.1 3.1l7.1 4.6l7.1 0.1l7-0.8l7.1-2.5l7.1-2.3l7.1-4l7.1-19.6l7.1-22.5l7.1-14.2l7-7.2l7.1-4l7.1-2.2l7.1-2.1l7.1-2.2l7-1.5l7.1-1.7l7.1-1.2l7.1-1.8"/>
<path stroke="#D95319" d="M43.8 105.2l7.1 3.2l7.1 1.8l7-0.9l7.1-5.6l7.1-5.6l7.1-5.9l7.1-2.3l7.1-2.4l7.1-1.2l7-0.5l7.1 1l7.1 4.6l7.1 5.6l7.1 2.8l7 1.1l7.1-2.6l7.1 1.2l7.1-2.3l7.1-17.3l7.1-18.2l7.1-12.8l7-6.2l7.1-1.8l7.1-1l7.1-2.1l7.1-1.1l7-1l7.1-0.3l7.1-0.9l7.1-0.3"/>
<path stroke="#EDB120" d="M43.8 135.3l7.1 0.1l7.1-1.7l7-2.3l7.1-3.4l7.1-4.5l7.1-4.2l7.1-3.7l7.1-1.5l7.1-2.3l7-1.1l7.1-1l7.1 4.6l7.1 4l7.1 3.6l7-1.2l7.1-3.7l7.1 0.8l7.1-1.2l7.1-21.1l7.1-21.7l7.1-14.1l7-8.4l7.1-4.8l7.1-2.2l7.1-3.4l7.1-1.8l7-1.5l7.1-2.1l7.1-1.5l7.1-3.2"/>
<path stroke="#7E2F8E" d="M43.8 111.6l7.1 1l7.1 0.8l7-2.1l7.1-5.9l7.1-5.9l7.1-6l7.1-2.6l7.1-2l7.1-2.2l7-2.1l7.1 0.1l7.1 4.7l7.1 3.5l7.1 2l7-0.5l7.1-1.3l7.1-1.3l7.1-5.7l7.1-16.3l7.1-16.5l7.1-11.4l7-6.9l7.1-1.5l7.1-2.2l7.1-1.7l7.1-0.6l7-1.6l7.1-0.2l7.1-0.7l7.1-1"/>
<path stroke="#77AC30" d="M43.8 116.2l7.1 1.4l7.1-1.1l7-2.8l7.1-6.2l7.1-7.1l7.1-5.3l7.1-3.6l7.1-2.5l7.1-1.3l7-1.4l7.1 0.1l7.1 5.3l7.1 5l7.1 1.7l7 0.4l7.1-0.1l7.1-1.6l7.1-2.6l7.1-14.5l7.1-17.7l7.1-11.5l7-4.9l7.1-1.3l7.1-1.1l7.1-0.1l7.1-0.2l7-1l7.1-0.4l7.1-1.3l7.1-1.3"/>
<path stroke="#4DBEEE" d="M43.8 115.6l7.1 1l7.1-0.2l7-2l7.1-5.7l7.1-6.5l7.1-5.5l7.1-3.9l7.1-2.9l7.1-1.9l7-2.5l7.1 0.7l7.1 3.2l7.1 3.4l7.1 0.5l7-1.5l7.1-1.8l7.1-2.4l7.1-5.9l7.1-16.3l7.1-17.9l7.1-10.8l7-5l7.1-3.6l7.1-2l7.1-2.2l7.1-1.9l7-1.7l7.1-1.2l7.1-1.3l7.1-1.4"/>
<path stroke="#A2142F" d="M43.8 144.1l7.1-1.2l7.1-1.4l7-2.3l7.1-4.5l7.1-4.9l7.1-4.2l7.1-2.8l7.1-3.5l7.1-2.5l7-1.9l7.1-1.1l7.1 3.3l7.1 3.9l7.1 1l7-0.8l7.1-3.7l7.1-2l7.1-1.8l7.1-18.6l7.1-22.1l7.1-15.6l7-7.9l7.1-3.8l7.1-3.1l7.1-2.3l7.1-1.7l7-2.1l7.1-0.8l7.1-1.8l7.1-0.8"/>
<path stroke="#0072BD" d="M43.8 123l7.1 1.6l7.1 0.5l7-1.8l7.1-5.6l7.1-5.1l7.1-5.4l7.1-2.8l7.1-2.8l7.1-1.9l7-1.8l7.1-0.7l7.1 3.9l7.1 4.1l7.1 2.7l7 0.1l7.1-3l7.1-1.5l7.1-3.7l7.1-17.6l7.1-19.9l7.1-13.6l7-7.1l7.1-2.5l7.1-2.6l7.1-1.9l7.1-1.5l7-0.9l7.1-1.7l7.1-1.3l7.1-0.6"/>
<path stroke="#D95319" d="M43.8 116.8l7.1 1.7l7.1 0.7l7-2l7.1-4.5l7.1-5.4l7.1-4.5l7.1-3l7.1-1.3l7.1-1.2l7-1.3l7.1 0.9l7.1 6.6l7.1 4.5l7.1 3.3l7 0.8l7.1-1.3l7.1 0.5l7.1-2.1l7.1-16.5l7.1-19.7l7.1-14l7-6.7l7.1-3.1l7.1-2.1l7.1-1.5l7.1-1.7l7-1.1l7.1-1.1l7.1-0.4l7.1-0.8"/>
<path stroke="#EDB120" d="M43.8 125.6l7.1 0.4l7.1 0.4l7-2.5l7.1-4.2l7.1-5.8l7.1-5.6l7.1-3.8l7.1-4.2l7.1-3.2l7-2.6l7.1-0.5l7.1 3.1l7.1 2.3l7.1 1.5l7-2.2l7.1-3.7l7.1-0.8l7.1-4.5l7.1-19l7.1-18.7l7.1-12.2l7-6l7.1-3.5l7.1-2.3l7.1-2.1l7.1-0.9l7-2.3l7.1-2l7.1-1.1l7.1-1.4"/>
<path stroke="#7E2F8E" d="M43.8 134.3l7.1-1.5l7.1-1.6l7-1.6l7.1-5.7l7.1-5.7l7.1-4.5l7.1-3.6l7.1-2.4l7.1-2.2l7-2.2l7.1-0.4l7.1 4.8l7.1 4.1l7.1 0.7l7-1l7.1-1.9l7.1-1.1l7.1-1l7.1-16.7l7.1-20.3l7.1-13.3l7-6.5l7.1-3.2l7.1-1.1l7.1-1l7.1-1.4l7-0.7l7.1-0.6l7.1-0.4l7.1-1"/>
<path stroke="#77AC30" d="M43.8 125.6l7.1 0.3l7.1 0.6l7-3l7.1-3.9l7.1-5l7.1-5.3l7.1-2.6l7.1-2.2l7.1-2.5l7-1.1l7.1-0.7l7.1 5l7.1 4l7.1 2.7l7-1.2l7.1-3.4l7.1 0.6l7.1-2.2l7.1-19.9l7.1-19.3l7.1-14.1l7-7.4l7.1-4.1l7.1-2.2l7.1-1.1l7.1-1.1l7-1.2l7.1-1.8l7.1-0.8l7.1-1.8"/>
<path stroke="#4DBEEE" d="M43.8 130.7l7.1-0.7l7.1-1.4l7-1.7l7.1-5.2l7.1-5.9l7.1-5.2l7.1-3.7l7.1-3.7l7.1-2.5l7-2.5l7.1 0.5l7.1 3.5l7.1 4l7.1 2.3l7-0.6l7.1-4.2l7.1-0.2l7.1-2.3l7.1-19l7.1-18.9l7.1-13.3l7-6.9l7.1-3l7.1-2.2l7.1-1.9l7.1-1.4l7-1.5l7.1-2.3l7.1-1.1l7.1-1.8"/>
<path stroke="#A2142F" d="M43.8 114.1l7.1 3.1l7.1 0.6l7-2.3l7.1-5.2l7.1-5.4l7.1-4.5l7.1-3.3l7.1-1.8l7.1-1l7-2.2l7.1-0.8l7.1 5.9l7.1 4.4l7.1 2.4l7 0.1l7.1-2.6l7.1-1.1l7.1-4l7.1-18l7.1-20.2l7.1-12.4l7-7.3l7.1-3.9l7.1-1.2l7.1-1.8l7.1-2.9l7-0.9l7.1-1.4l7.1-2.1l7.1-2.1"/>
<path stroke="#0072BD" d="M43.8 132.3l7.1 0.1l7.1 0.7l7-1.6l7.1-4l7.1-5.1l7.1-3.4l7.1-3.1l7.1-2.1l7.1-2.7l7-0.8l7.1-0.1l7.1 4.5l7.1 4l7.1 2.3l7-0.3l7.1-1.5l7.1-0.9l7.1-2.4l7.1-16l7.1-21.7l7.1-15.3l7-7.2l7.1-2.4l7.1-1.6l7.1-1.6l7.1-0.6l7-0.9l7.1-0.7l7.1-0.4l7.1 0.2"/>
<path stroke="#D95319" d="M43.8 119.7l7.1 1.7l7.1 0.3l7-1.3l7.1-4.3l7.1-4.7l7.1-3.9l7.1-1.5l7.1-2.1l7.1-2.3l7-0.5l7.1 1.8l7.1 5.7l7.1 6.3l7.1 3.7l7-2.2l7.1-5.4l7.1 2.7l7.1-1.7l7.1-19.6l7.1-21.1l7.1-13.7l7-6.9l7.1-3.6l7.1-3.1l7.1-2.6l7.1-1.7l7-1.2l7.1-1.9l7.1-1.8l7.1-1.5"/>
<path stroke="#EDB120" d="M43.8 120.2l7.1 3.3l7.1 1.4l7-1.5l7.1-4.5l7.1-4.4l7.1-2.7l7.1-2l7.1-1l7.1-1l7-2.6l7.1 0.3l7.1 5.9l7.1 6.6l7.1 2.9l7 0.6l7.1-2l7.1 1.6l7.1-0.8l7.1-17.9l7.1-21.8l7.1-14.1l7-6.9l7.1-2.5l7.1-1.7l7.1-1.2l7.1-0.4l7-0.7l7.1-0.2l7.1-0.4l7.1-0.6"/>
<path stroke="#7E2F8E" d="M43.8 112.5l7.1 2.5l7.1 0.3l7-1.3l7.1-5.9l7.1-5.1l7.1-4.3l7.1-2.5l7.1-2l7.1-1.3l7-1.8l7.1 1.1l7.1 5.4l7.1 3.4l7.1 1.3l7 0.8l7.1-0.7l7.1-1.5l7.1-3.9l7.1-15.2l7.1-19.4l7.1-12.4l7-6.9l7.1-3.1l7.1-1.6l7.1-1.4l7.1-1.5l7-0.8l7.1-1.2l7.1-1.7l7.1-1.1"/>
<path stroke="#77AC30" d="M43.8 136.5l7.1 0.1l7.1-1.2l7-3l7.1-3.6l7.1-5.6l7.1-4.1l7.1-3.9l7.1-3.5l7.1-2.6l7-2.1l7.1-1l7.1 4.9l7.1 3.4l7.1 1.3l7-0.5l7.1-2.4l7.1-2l7.1-3.7l7.1-19.7l7.1-21.9l7.1-15.2l7-8l7.1-3.7l7.1-3l7.1-2.3l7.1-2.1l7-1.4l7.1-2.3l7.1-1.7l7.1-1.9"/>
<path stroke="#4DBEEE" d="M43.8 101l7.1 4.7l7.1 1.5l7-1.2l7.1-5.4l7.1-6.2l7.1-4.7l7.1-3.1l7.1-1.3l7.1-1.7l7-2.4l7.1 0.3l7.1 4.4l7.1 5.7l7.1 3.1l7-1.5l7.1-3.2l7.1 0.6l7.1-3.4l7.1-17.2l7.1-18.5l7.1-11.9l7-5.1l7.1-3.8l7.1-1.8l7.1-2l7.1-1.9l7-0.6l7.1-1.4l7.1-1.7l7.1-1.4"/>
<path stroke="#A2142F" d="M43.8 108.3l7.1 3.6l7.1 1.7l7-1.5l7.1-6l7.1-6.6l7.1-4.4l7.1-3.6l7.1-2l7.1-2.3l7-1.7l7.1-0.9l7.1 5.2l7.1 3.5l7.1 2.8l7-0.4l7.1-4.3l7.1 0.9l7.1-2.2l7.1-17.7l7.1-17.1l7.1-12.5l7-6.4l7.1-2.9l7.1-1.6l7.1-1.1l7.1-0.8l7-1.3l7.1-2l7.1-0.4l7.1-1.9"/>
<path stroke="#0072BD" d="M43.8 111.4l7.1 1.7l7.1 0l7-2.6l7.1-5.8l7.1-5.9l7.1-6.3l7.1-3.2l7.1-3l7.1-3.1l7-1.2l7.1-1.3l7.1 4.3l7.1 4.2l7.1 1.3l7-1.2l7.1-1.6l7.1-2.3l7.1-6.5l7.1-16.9l7.1-17.6l7.1-10.5l7-5.3l7.1-2.8l7.1-1.7l7.1-2.4l7.1-1.8l7-2.4l7.1-1.5l7.1-2.2l7.1-2"/>
<path stroke="#D95319" d="M43.8 140.1l7.1-0.8l7.1-1.8l7-3.3l7.1-3.5l7.1-5.5l7.1-5l7.1-3.7l7.1-3.2l7.1-2.5l7-2.2l7.1-1.5l7.1 4l7.1 2.9l7.1 0l7 0.3l7.1-0.6l7.1-3.7l7.1-5.3l7.1-16.1l7.1-20.2l7.1-13.6l7-6.5l7.1-4.1l7.1-2.1l7.1-1.8l7.1-2.2l7-1.9l7.1-0.5l7.1-1.4l7.1-1.2"/>
<path stroke="#EDB120" d="M43.8 130.5l7.1 1.7l7.1 0.2l7-0.9l7.1-4.2l7.1-3.9l7.1-2.5l7.1-2.8l7.1-0.5l7.1-0.9l7-0.1l7.1 2.1l7.1 6.1l7.1 5.4l7.1 2.3l7 0.6l7.1-2.4l7.1 0.2l7.1-0.8l7.1-18.6l7.1-23.3l7.1-15.9l7-8l7.1-3.5l7.1-2.3l7.1-1.9l7.1-0.9l7-0.8l7.1-1.3l7.1-1l7.1-0.7"/>
<path stroke="#7E2F8E" d="M43.8 143.3l7.1-0.7l7.1-1.9l7-2.8l7.1-4.4l7.1-4.5l7.1-4l7.1-4.1l7.1-3.8l7.1-2l7-2.1l7.1-1.5l7.1 4.3l7.1 3.9l7.1 2.4l7-0.5l7.1-1.5l7.1-0.8l7.1-2.5l7.1-18.4l7.1-21.6l7.1-15.1l7-7.4l7.1-2.1l7.1-2.2l7.1-0.7l7.1-1.4l7-0.8l7.1-0.6l7.1-0.7l7.1-0.8"/>
<path stroke="#77AC30" d="M43.8 111.4l7.1 3.2l7.1 1.6l7-0.2l7.1-4.3l7.1-5.7l7.1-3.7l7.1-2.7l7.1-1.4l7.1-1.3l7-1.5l7.1 1.4l7.1 6.1l7.1 5.4l7.1 1.3l7 0.4l7.1 0l7.1-1.8l7.1-4.7l7.1-17.1l7.1-20.3l7.1-13.4l7-6.9l7.1-3.1l7.1-1.9l7.1-1.7l7.1-0.6l7-1.2l7.1-1.4l7.1-1.8l7.1-1.5"/>
<path stroke="#4DBEEE" d="M43.8 97.5l7.1 4.5l7.1 0.7l7-1.5l7.1-6.3l7.1-7.2l7.1-6l7.1-3.6l7.1-1.6l7.1-1.3l7-1.7l7.1 1.6l7.1 5.4l7.1 6.9l7.1 2.5l7 1.3l7.1 1.6l7.1 0.8l7.1-1l7.1-14.4l7.1-17l7.1-9.5l7-5.3l7.1-2.4l7.1-0.1l7.1-1.6l7.1-0.3l7-1.1l7.1-0.8l7.1 0.2l7.1-1.4"/>
<path stroke="#A2142F" d="M43.8 110.6l7.1 3.3l7.1 1.7l7-0.1l7.1-4.1l7.1-6l7.1-3.4l7.1-2l7.1-1.9l7.1-0.9l7-1.3l7.1 0.5l7.1 3.4l7.1 4.7l7.1 0.8l7-1.2l7.1-3l7.1-2l7.1-5.8l7.1-17.9l7.1-19.9l7.1-13.6l7-6.9l7.1-3.4l7.1-3.8l7.1-2.4l7.1-2.6l7-2l7.1-2.5l7.1-0.5l7.1-2.9"/>
<path stroke="#0072BD" d="M43.8 130.4l7.1 0.7l7.1-1.3l7-1.9l7.1-3.9l7.1-4.4l7.1-5.2l7.1-3l7.1-2.2l7.1-2.9l7-1l7.1-0.2l7.1 4.6l7.1 5.4l7.1 3l7-0.7l7.1-1.6l7.1-1.1l7.1-2.5l7.1-18.1l7.1-20.6l7.1-14.9l7-7.8l7.1-3l7.1-1.8l7.1-2.7l7.1-1.2l7-0.8l7.1-1.8l7.1-1.4l7.1-1.1"/>
<path stroke="#D95319" d="M43.8 132.9l7.1-0.1l7.1-1.2l7-2l7.1-3.5l7.1-5.1l7.1-4.2l7.1-3.1l7.1-3.2l7.1-1.9l7-1.3l7.1 1.2l7.1 5.1l7.1 5.1l7.1 3.2l7 0.5l7.1-2.7l7.1-0.6l7.1-1.3l7.1-18.3l7.1-23.2l7.1-14.4l7-7.2l7.1-4.5l7.1-1.9l7.1-1.9l7.1-1.9l7-1.4l7.1-1l7.1-1.5l7.1-1.1"/>
<path stroke="#EDB120" d="M43.8 111.1l7.1 2.1l7.1-0.2l7-1.4l7.1-6.6l7.1-6.1l7.1-5.7l7.1-3l7.1-2l7.1-1.4l7-1.8l7.1-0.1l7.1 3.4l7.1 3.6l7.1 3l7-1.3l7.1-2.5l7.1 0.5l7.1-3.7l7.1-17.3l7.1-18.5l7.1-11l7-5l7.1-3l7.1-2.3l7.1-2.1l7.1-0.2l7-1.4l7.1-0.9l7.1-2.1l7.1-0.7"/>
<path stroke="#7E2F8E" d="M43.8 104l7.1 5.4l7.1 2.1l7-1l7.1-4.5l7.1-4.4l7.1-3.1l7.1-2.5l7.1-0.5l7.1-0.8l7-0.2l7.1 2.1l7.1 5.2l7.1 6.1l7.1 3.8l7 1.3l7.1-0.6l7.1 0.7l7.1-0.3l7.1-17.4l7.1-20.6l7.1-14.5l7-6.9l7.1-2.8l7.1-1.7l7.1-1.5l7.1-1.2l7 0.1l7.1-0.3l7.1-0.8l7.1-0.6"/>
<path stroke="#77AC30" d="M43.8 99.7l7.1 4.1l7.1 2.7l7-0.8l7.1-5.7l7.1-6.5l7.1-4.6l7.1-3.2l7.1-2.2l7.1-1.1l7-1.4l7.1 1.5l7.1 4.6l7.1 4.5l7.1 4.5l7-1l7.1-1.9l7.1 1.5l7.1-3l7.1-17.1l7.1-18l7.1-12.1l7-6l7.1-1.2l7.1-1.5l7.1-0.9l7.1 0.6l7-0.8l7.1-0.8l7.1-0.3l7.1-1"/>
<path stroke="#4DBEEE" d="M43.8 108.2l7.1 4.5l7.1 1.9l7-1l7.1-4.6l7.1-5l7.1-4.3l7.1-2.1l7.1-1.6l7.1-1.5l7-1.8l7.1 1.6l7.1 4.6l7.1 4.7l7.1 4.3l7-1l7.1-3.8l7.1 1.9l7.1-1.6l7.1-17.7l7.1-19.9l7.1-13.3l7-6.2l7.1-3.8l7.1-0.8l7.1-3.3l7.1-1.1l7-0.8l7.1-0.1l7.1-0.9l7.1-0.6"/>
<path stroke="#A2142F" d="M43.8 136.3l7.1-0.5l7.1-1.2l7-2.1l7.1-4.3l7.1-6.4l7.1-5l7.1-3.1l7.1-2.7l7.1-3.4l7-1.9l7.1-1.4l7.1 3.8l7.1 1.8l7.1 0.3l7-0.5l7.1-2.3l7.1-3.1l7.1-5.8l7.1-18.3l7.1-20.5l7.1-13.8l7-7.1l7.1-3l7.1-2.8l7.1-1.6l7.1-2l7-2.2l7.1-0.7l7.1-1.6l7.1-0.8"/>
<path stroke="#0072BD" d="M43.8 129.5l7.1 0.5l7.1-1.1l7-2.5l7.1-4.4l7.1-4.5l7.1-4.8l7.1-3.5l7.1-3.1l7.1-1.2l7-1.9l7.1 0.5l7.1 4.5l7.1 5l7.1 1.5l7-0.6l7.1-1.7l7.1-0.5l7.1-3.8l7.1-18.8l7.1-20.8l7.1-13.8l7-7l7.1-3.7l7.1-3.3l7.1-1.6l7.1-1.8l7-1l7.1-2.2l7.1-0.3l7.1-0.8"/>
<path stroke="#D95319" d="M43.8 125l7.1 1.3l7.1-0.5l7-1.6l7.1-5.6l7.1-5l7.1-4.5l7.1-2.7l7.1-2.5l7.1-1.9l7-0.8l7.1 0.5l7.1 4.3l7.1 5.3l7.1 2.6l7 0.1l7.1-3.4l7.1-0.1l7.1-2.1l7.1-18.4l7.1-21l7.1-13.8l7-6.6l7.1-2.3l7.1-1.7l7.1-1.9l7.1-1.3l7-1.4l7.1-1.2l7.1-1.8l7.1-0.1"/>
<path stroke="#EDB120" d="M43.8 140.1l7.1-2.5l7.1-1.4l7-2.6l7.1-4.8l7.1-5.6l7.1-4.9l7.1-4.7l7.1-2l7.1-2.8l7-2.4l7.1-1.1l7.1 3.8l7.1 2.4l7.1 0.2l7-0.1l7.1-0.8l7.1-2.8l7.1-4.2l7.1-17.7l7.1-20.3l7.1-15.4l7-6.3l7.1-2.9l7.1-2.3l7.1-2.2l7.1-1.2l7-0.8l7.1-1.3l7.1-1.7l7.1-0.9"/>
<path stroke="#7E2F8E" d="M43.8 120.7l7.1 1.4l7.1 0.2l7-2.2l7.1-5l7.1-6l7.1-4.5l7.1-2.5l7.1-3.1l7.1-1.7l7-2.3l7.1 1l7.1 4.9l7.1 5.4l7.1 2.8l7 0.9l7.1-0.8l7.1 1.1l7.1-1.4l7.1-15.7l7.1-18.7l7.1-12.9l7-6l7.1-1.7l7.1-0.7l7.1-0.9l7.1-0.3l7 0l7.1-0.4l7.1 0.2l7.1 0.1"/>
<path stroke="#77AC30" d="M43.8 135l7.1-0.3l7.1 0l7-2.5l7.1-3.9l7.1-3.6l7.1-3.3l7.1-2.6l7.1-1.1l7.1-1.3l7-1.4l7.1 2.1l7.1 5.4l7.1 6.2l7.1 4.4l7-0.2l7.1-2.5l7.1 0.3l7.1-0.6l7.1-19.2l7.1-22.3l7.1-16.6l7-7.7l7.1-3.6l7.1-1.9l7.1-1.8l7.1-0.8l7-1.8l7.1-1l7.1-0.7l7.1-1"/>
<path stroke="#4DBEEE" d="M43.8 114.9l7.1 0.9l7.1 0.6l7-1.9l7.1-6.2l7.1-6.4l7.1-6l7.1-3.3l7.1-3.7l7.1-1.3l7-2.9l7.1-1l7.1 4.5l7.1 4.6l7.1 2.4l7-2.2l7.1-3.2l7.1 0.3l7.1-4.1l7.1-17l7.1-18.7l7.1-10.5l7-5.7l7.1-3.1l7.1-1l7.1-2.5l7.1-0.6l7-1l7.1-1.5l7.1-1.4l7.1-0.8"/>
<path stroke="#A2142F" d="M43.8 114l7.1 2.9l7.1 0.4l7-1.2l7.1-5.7l7.1-5.9l7.1-5.7l7.1-2.6l7.1-2.8l7.1-1.9l7-1.7l7.1-0.2l7.1 5.1l7.1 4.2l7.1 2.9l7-1.4l7.1-2.1l7.1 1.2l7.1-3.5l7.1-18l7.1-18.8l7.1-11.6l7-6.3l7.1-2.2l7.1-2.1l7.1-1.6l7.1-0.5l7-0.9l7.1-1l7.1 0.6l7.1-0.8"/>
<path stroke="#0072BD" d="M43.8 121.1l7.1 1.8l7.1 0.3l7-2l7.1-5.4l7.1-4.7l7.1-4.3l7.1-3l7.1-3.3l7.1-2.1l7-1.1l7.1-0.3l7.1 5.6l7.1 5.1l7.1 1.3l7 1.3l7.1-1.6l7.1-1.2l7.1-3.3l7.1-16.1l7.1-19.8l7.1-13.7l7-5.5l7.1-3.2l7.1-1.5l7.1-1l7.1-1.1l7-0.6l7.1-0.2l7.1-0.9l7.1-0.7"/>
<path stroke="#D95319" d="M43.8 119.9l7.1 0.2l7.1-0.3l7-1.6l7.1-5.2l7.1-4.9l7.1-5.4l7.1-3.6l7.1-2.8l7.1-1.3l7-3.3l7.1 0.7l7.1 4.3l7.1 3.4l7.1 0.6l7 1.2l7.1-1.5l7.1-1.7l7.1-4.4l7.1-16.9l7.1-19.2l7.1-11.6l7-6.5l7.1-3.3l7.1-2.5l7.1-1.3l7.1-2.4l7-1.6l7.1-1.3l7.1 0l7.1-1.5"/>
<path stroke="#EDB120" d="M43.8 112.6l7.1 3.6l7.1 0.2l7-1.1l7.1-5.9l7.1-5.6l7.1-5.4l7.1-2.5l7.1-2.5l7.1-1.6l7-1l7.1 0.5l7.1 4.9l7.1 4.2l7.1 4l7-0.5l7.1-2.2l7.1 1.2l7.1-2.9l7.1-16.2l7.1-19.8l7.1-12.1l7-6l7.1-2.9l7.1-1l7.1-0.6l7.1-1.5l7-0.2l7.1-0.3l7.1 0.2l7.1-0.7"/>
<path stroke="#7E2F8E" d="M43.8 115.9l7.1 3l7.1 1l7-1.8l7.1-5.8l7.1-4.7l7.1-4.8l7.1-2.3l7.1-1.6l7.1-1.6l7-1.7l7.1-0.1l7.1 4.6l7.1 3.7l7.1 2.4l7-0.5l7.1-2.7l7.1 0.5l7.1-3.1l7.1-17.9l7.1-20l7.1-12.3l7-7l7.1-2.7l7.1-2.4l7.1-1.8l7.1-1.4l7-0.7l7.1-0.9l7.1-1.1l7.1-1.3"/>
<path stroke="#77AC30" d="M43.8 125.6l7.1 1.2l7.1 0.5l7-2l7.1-4.1l7.1-5.4l7.1-4.6l7.1-3l7.1-2.7l7.1-1l7-1.1l7.1 0.6l7.1 5l7.1 4.6l7.1 3.1l7-0.3l7.1-2.1l7.1 0.6l7.1-3l7.1-17.6l7.1-21.4l7.1-13.7l7-7.1l7.1-3l7.1-2.8l7.1-1.4l7.1-0.1l7-1.3l7.1-0.2l7.1-1.7l7.1 0.6"/>
<path stroke="#4DBEEE" d="M43.8 143l7.1-1.2l7.1-1.5l7-2.9l7.1-3.9l7.1-4.9l7.1-4l7.1-4.2l7.1-2.8l7.1-3.1l7-2.1l7.1-0.3l7.1 4.3l7.1 3.7l7.1 2.5l7-1.2l7.1-4.3l7.1 1.9l7.1-1.8l7.1-19.3l7.1-21.3l7.1-14.3l7-8.5l7.1-3.4l7.1-1.3l7.1-1.5l7.1-1.4l7-1.5l7.1-2.1l7.1-0.5l7.1-1.6"/>
<path stroke="#A2142F" d="M43.8 133.3l7.1-0.6l7.1-1.4l7-2.8l7.1-5.6l7.1-5.2l7.1-3.6l7.1-3.6l7.1-2.8l7.1-3.2l7-2.6l7.1 0.6l7.1 4l7.1 4.7l7.1 2.4l7-1.9l7.1-4.6l7.1 0.5l7.1-1.3l7.1-20.8l7.1-19.4l7.1-13.8l7-6.4l7.1-3.2l7.1-2.4l7.1-1.4l7.1-1.4l7-1.3l7.1-0.4l7.1-0.5l7.1-1.6"/>
<path stroke="#0072BD" d="M43.8 102.9l7.1 2.9l7.1 0.5l7-1l7.1-6.6l7.1-6.9l7.1-6l7.1-3l7.1-3l7.1-3.3l7-2.2l7.1 0.4l7.1 4.8l7.1 4.4l7.1 1.5l7-0.2l7.1-2.7l7.1-0.7l7.1-6l7.1-16.2l7.1-16.4l7.1-10.3l7-4.8l7.1-2.9l7.1-2l7.1-1.6l7.1-1.8l7-1.2l7.1-1.5l7.1-0.3l7.1-1.4"/>
<path stroke="#D95319" d="M43.8 132.9l7.1 0.3l7.1-0.6l7-2.1l7.1-4.7l7.1-4.8l7.1-3.8l7.1-2.6l7.1-2.3l7.1-3l7-0.5l7.1 0l7.1 6.1l7.1 4l7.1 1.9l7 0.5l7.1-2.6l7.1 0.4l7.1-2.5l7.1-17.9l7.1-21.2l7.1-15.3l7-7l7.1-3.9l7.1-2.9l7.1-2l7.1-0.4l7-1l7.1-1.9l7.1-0.9l7.1-1.6"/>
<path stroke="#EDB120" d="M43.8 113.1l7.1 1.4l7.1 0.2l7-1.7l7.1-6.3l7.1-6.7l7.1-5.7l7.1-4l7.1-3.4l7.1-3.1l7-2.5l7.1-1.2l7.1 4.1l7.1 3.6l7.1 2.4l7-1.7l7.1-4.5l7.1-0.7l7.1-4.8l7.1-18.4l7.1-18.3l7.1-10.8l7-5.6l7.1-2.9l7.1-2.5l7.1-2.3l7.1-2.1l7-0.7l7.1-1.2l7.1-1.3l7.1-1.3"/>
<path stroke="#7E2F8E" d="M43.8 132.7l7.1 0.3l7.1-0.3l7-1.8l7.1-3.7l7.1-4.3l7.1-3.3l7.1-3.6l7.1-2.7l7.1-2.1l7-0.9l7.1-0.1l7.1 5.6l7.1 3.9l7.1 1.9l7 0.2l7.1-3.2l7.1 0.7l7.1 0.8l7.1-17.9l7.1-21.9l7.1-15.5l7-7.4l7.1-3.8l7.1-2.5l7.1-1.8l7.1-3l7-1.5l7.1-1.3l7.1-0.7l7.1-1.9"/>
<path stroke="#77AC30" d="M43.8 123.9l7.1 1l7.1 0l7-1.5l7.1-4.7l7.1-5.4l7.1-4.6l7.1-2.1l7.1-2.1l7.1-1.8l7-1.2l7.1 0.2l7.1 4.9l7.1 4.2l7.1 2.8l7-0.7l7.1-2.9l7.1 1l7.1-1.7l7.1-19.3l7.1-19.7l7.1-13.5l7-6.7l7.1-3.3l7.1-2.3l7.1-0.4l7.1-1.1l7-1.8l7.1-0.8l7.1-0.1l7.1-1"/>
<path stroke="#4DBEEE" d="M43.8 122.5l7.1-0.2l7.1-1.2l7-3l7.1-6.9l7.1-8.1l7.1-7.8l7.1-3.8l7.1-4.2l7.1-4l7-2.4l7.1-0.9l7.1 2.8l7.1 2.5l7.1 1.5l7-3.7l7.1-5l7.1-2.2l7.1-5.6l7.1-17.2l7.1-15.4l7.1-9.9l7-4.8l7.1-2.5l7.1-2.2l7.1-0.7l7.1-1.8l7-0.8l7.1-1.4l7.1-1.1l7.1-0.9"/>
<path stroke="#A2142F" d="M43.8 113.5l7.1 1.6l7.1-0.4l7-1.7l7.1-6.4l7.1-5.6l7.1-5.4l7.1-4l7.1-2.7l7.1-2.4l7-1.6l7.1 0.7l7.1 3.6l7.1 3.7l7.1-0.2l7-1.2l7.1-3.3l7.1-2.9l7.1-4.6l7.1-16.3l7.1-18.6l7.1-10.5l7-5.9l7.1-3l7.1-3.1l7.1-1.4l7.1-1.6l7-2.1l7.1 0.2l7.1-2.5l7.1-2.2"/>
<path stroke="#0072BD" d="M43.8 108.9l7.1 1.7l7.1 0.3l7-1.7l7.1-6.9l7.1-6.4l7.1-5.7l7.1-2.5l7.1-3l7.1-1.7l7-1.7l7.1 0.7l7.1 5.1l7.1 3.8l7.1 1l7 0.2l7.1-0.6l7.1-2l7.1-3.8l7.1-15.8l7.1-16.3l7.1-10.6l7-4.9l7.1-3.3l7.1-0.4l7.1-2l7.1-1l7-0.1l7.1-1.6l7.1-1.3l7.1-1.6"/>
<path stroke="#D95319" d="M43.8 122.2l7.1 1.4l7.1 0.2l7-2l7.1-5.1l7.1-6.1l7.1-4.9l7.1-2.4l7.1-3l7.1-1.6l7-1.9l7.1-0.1l7.1 5.7l7.1 4.5l7.1 2.8l7-2.1l7.1-1.8l7.1-0.1l7.1-2.2l7.1-17.7l7.1-20.4l7.1-13.1l7-7.2l7.1-3.1l7.1-1.5l7.1-1.4l7.1-2l7-1.4l7.1-2l7.1-1.3l7.1-1.6"/>
<path stroke="#EDB120" d="M43.8 115.9l7.1 2.1l7.1-0.2l7-1.8l7.1-5.3l7.1-6.5l7.1-6.2l7.1-3.5l7.1-2.5l7.1-1.6l7-2.6l7.1 1.5l7.1 3.8l7.1 4.4l7.1 2.8l7-2l7.1-4.9l7.1 1.7l7.1-1.8l7.1-20.4l7.1-18.1l7.1-11.3l7-5.8l7.1-2.4l7.1-2.9l7.1-1.4l7.1-1.6l7-1.6l7.1-2l7.1-0.8l7.1-2.1"/>
<path stroke="#7E2F8E" d="M43.8 97.9l7.1 3.4l7.1 1.9l7-1.8l7.1-6l7.1-5.8l7.1-5.4l7.1-2.7l7.1-2l7.1-1.7l7-1.7l7.1 1.4l7.1 5.1l7.1 5.3l7.1 3.6l7 0.3l7.1-1.9l7.1 0.6l7.1-4.2l7.1-16l7.1-16.5l7.1-11.2l7-4.7l7.1-2.6l7.1-0.6l7.1-0.8l7.1-1.2l7-1l7.1-2.1l7.1-1l7.1-2"/>
<path stroke="#77AC30" d="M43.8 115.1l7.1 3.3l7.1 1.2l7-0.6l7.1-4.2l7.1-4.8l7.1-3.3l7.1-2.8l7.1-1.3l7.1 0.5l7-1.8l7.1 0.6l7.1 5.3l7.1 5.7l7.1 1.3l7 1.3l7.1-1.3l7.1-0.8l7.1-1.9l7.1-16.6l7.1-20.4l7.1-14.3l7-6.9l7.1-3.1l7.1-1.3l7.1-1.2l7.1-1l7-1.1l7.1-0.5l7.1-1.2l7.1 0"/>
<path stroke="#4DBEEE" d="M43.8 141.2l7.1-1.8l7.1-1.8l7-2.9l7.1-4.5l7.1-5.8l7.1-4.2l7.1-3.5l7.1-2.9l7.1-3.2l7-1.9l7.1 0.4l7.1 3.1l7.1 4.1l7.1 2.8l7-1.9l7.1-4l7.1 1.5l7.1-1.4l7.1-19.3l7.1-22.8l7.1-13.7l7-7.8l7.1-3.9l7.1-2.8l7.1-1.5l7.1-1.6l7-0.8l7.1-0.6l7.1-0.1l7.1-0.8"/>
<path stroke="#A2142F" d="M43.8 144.6l7.1-2l7.1-1.6l7-2.6l7.1-3.7l7.1-4.4l7.1-3.3l7.1-3.1l7.1-2.8l7.1-2.4l7-1.6l7.1-0.2l7.1 4.6l7.1 4.3l7.1 0l7 2l7.1-1l7.1-3.3l7.1-4.7l7.1-17.8l7.1-22l7.1-16.3l7-7.7l7.1-4.9l7.1-3.7l7.1-2.1l7.1-2.4l7-2.8l7.1-2.4l7.1-1.4l7.1-3.3"/>
<path stroke="#0072BD" d="M43.8 122.6l7.1 0.8l7.1-0.4l7-1.7l7.1-5.9l7.1-5.7l7.1-4.5l7.1-3.6l7.1-2.1l7.1-2.5l7-2.5l7.1-0.3l7.1 4.3l7.1 4.2l7.1 2.1l7-0.9l7.1-3.1l7.1-0.3l7.1-2.7l7.1-18.3l7.1-19.8l7.1-11.7l7-5.2l7.1-3l7.1-2.2l7.1-1.7l7.1-1.6l7-1.4l7.1-1.3l7.1-0.9l7.1-0.4"/>
<path stroke="#D95319" d="M43.8 119.8l7.1 1.3l7.1-0.9l7-0.9l7.1-6.6l7.1-5.5l7.1-4.7l7.1-3.8l7.1-2.5l7.1-2.3l7-2.3l7.1 0.2l7.1 5l7.1 4l7.1 3.6l7-1.9l7.1-4.7l7.1 1.7l7.1-1.3l7.1-19l7.1-19.1l7.1-12.5l7-6.4l7.1-2.5l7.1-3l7.1-1.4l7.1-2.2l7-0.9l7.1-1.8l7.1-0.8l7.1-2"/>
<path stroke="#EDB120" d="M43.8 131.1l7.1 0.2l7.1-1.3l7-1.3l7.1-3.5l7.1-6l7.1-4.7l7.1-3.2l7.1-2.1l7.1-1.7l7-2.4l7.1-0.1l7.1 5.1l7.1 4.5l7.1 2.8l7-1.3l7.1-4.7l7.1 0.7l7.1-2.9l7.1-18.5l7.1-19.8l7.1-14.5l7-6.5l7.1-3.7l7.1-2.5l7.1-1.6l7.1-2.2l7-0.3l7.1-1.3l7.1-1.1l7.1-1.4"/>
<path stroke="#7E2F8E" d="M43.8 126.1l7.1 0.1l7.1 0.6l7-2.5l7.1-5.3l7.1-5.1l7.1-4.6l7.1-3.8l7.1-1.7l7.1-2.4l7-1.9l7.1 0.3l7.1 4.2l7.1 4.6l7.1 1.7l7-0.4l7.1-2.2l7.1 0.2l7.1-3.8l7.1-17.6l7.1-19.9l7.1-13.4l7-6.7l7.1-2.8l7.1-3l7.1-1.3l7.1-0.8l7-2.1l7.1-1.1l7.1-0.2l7.1-1.2"/>
<path stroke="#77AC30" d="M43.8 112.5l7.1 1.7l7.1 1.3l7-0.7l7.1-5.4l7.1-5.6l7.1-4.1l7.1-3.2l7.1-1.7l7.1-2.2l7-0.9l7.1 0.3l7.1 5.3l7.1 4.4l7.1 4.9l7-1.2l7.1-4.1l7.1 2.6l7.1-1.1l7.1-19l7.1-19l7.1-12.6l7-5.9l7.1-2.8l7.1-1.8l7.1-0.9l7.1-1.3l7-0.9l7.1-1.8l7.1-0.9l7.1-0.7"/>
<path stroke="#4DBEEE" d="M43.8 138.5l7.1-1.7l7.1-0.6l7-3.2l7.1-4l7.1-4.5l7.1-5.4l7.1-2.9l7.1-3.2l7.1-1.9l7-1.1l7.1 0.2l7.1 5.8l7.1 5l7.1 2.6l7 0.3l7.1-2.6l7.1 0.2l7.1-1.1l7.1-17.8l7.1-23l7.1-14.8l7-7.7l7.1-3.2l7.1-2.4l7.1-1.7l7.1-0.8l7-0.6l7.1-0.9l7.1-1.2l7.1-2.1"/>
<path stroke="#A2142F" d="M43.8 129.4l7.1 1.1l7.1 0.7l7-1.3l7.1-4.5l7.1-3.7l7.1-4.1l7.1-2.8l7.1-2.6l7.1-1.3l7-0.9l7.1 0.4l7.1 4.7l7.1 5.1l7.1 3.5l7-0.1l7.1-3.6l7.1 1.4l7.1-1.9l7.1-19.6l7.1-21.6l7.1-14.3l7-5.9l7.1-2.9l7.1-2l7.1-2l7.1-1.3l7 0.4l7.1 0l7.1-0.2l7.1-0.3"/>
<path stroke="#0072BD" d="M43.8 133.1l7.1 0.3l7.1-1.4l7-2.8l7.1-4.3l7.1-5.4l7.1-5.2l7.1-3.4l7.1-3.1l7.1-2.3l7-2l7.1-0.1l7.1 4.9l7.1 4l7.1 2.6l7-0.4l7.1-3.8l7.1 0.5l7.1-3.1l7.1-17.6l7.1-20.8l7.1-13.4l7-7.3l7.1-3l7.1-2l7.1-1.9l7.1-1.7l7-1.8l7.1-1.2l7.1-1l7.1-1.9"/>
<path stroke="#D95319" d="M43.8 135.5l7.1-0.8l7.1-1.1l7-2.1l7.1-4.7l7.1-4.9l7.1-4.1l7.1-4.9l7.1-2.8l7.1-2.5l7-2.1l7.1-0.3l7.1 4.5l7.1 4.3l7.1 1.9l7-1.7l7.1-5.1l7.1 0.5l7.1-2.3l7.1-19.7l7.1-20.8l7.1-14.8l7-6.9l7.1-4l7.1-2.3l7.1-2.3l7.1-2l7-2.2l7.1-1.5l7.1-1.6l7.1-2"/>
<path stroke="#EDB120" d="M43.8 128.2l7.1 0.8l7.1-0.1l7-1.6l7.1-4.6l7.1-4l7.1-4l7.1-2.7l7.1-0.9l7.1-2.1l7-1.2l7.1 1l7.1 4.2l7.1 5.3l7.1 1.4l7-0.4l7.1-2.3l7.1-0.7l7.1-2.2l7.1-19.7l7.1-22.8l7.1-14.3l7-7.7l7.1-3.8l7.1-3.3l7.1-1.5l7.1-2l7-2.7l7.1-0.7l7.1-1.8l7.1-0.8"/>
<path stroke="#7E2F8E" d="M43.8 99.5l7.1 4.5l7.1 1.2l7-1.4l7.1-6.3l7.1-6.3l7.1-4.8l7.1-3.3l7.1-2.3l7.1-1.7l7-2.8l7.1 1.2l7.1 4l7.1 4.1l7.1 1.3l7-1.2l7.1-2l7.1-1.3l7.1-3.6l7.1-17l7.1-17.1l7.1-10.6l7-5.2l7.1-1.7l7.1-1.6l7.1-1l7.1-0.6l7-1.9l7.1-1.4l7.1 0.2l7.1-2.1"/>
<path stroke="#77AC30" d="M43.8 124.4l7.1 0.8l7.1-0.1l7-2l7.1-5.8l7.1-5.3l7.1-4.2l7.1-3l7.1-1.8l7.1-0.6l7-2.4l7.1 1.4l7.1 4.5l7.1 6l7.1 2.2l7 0.4l7.1-0.9l7.1-0.9l7.1-2.6l7.1-18.1l7.1-21l7.1-13l7-6.6l7.1-2.9l7.1-2l7.1-1.2l7.1-2l7 0l7.1-0.7l7.1-0.5l7.1-1.5"/>
<path stroke="#4DBEEE" d="M43.8 116l7.1 1.1l7.1-0.2l7-2.6l7.1-5.8l7.1-6.6l7.1-6.2l7.1-3.8l7.1-2.9l7.1-2.7l7-1.8l7.1 0.3l7.1 3.7l7.1 4.1l7.1 0l7-0.1l7.1-1.3l7.1-2.4l7.1-6l7.1-16.8l7.1-17.5l7.1-11l7-5.1l7.1-2.2l7.1-1.5l7.1-1.8l7.1-0.9l7-0.8l7.1-0.5l7.1-0.5l7.1-0.9"/>
<path stroke="#A2142F" d="M43.8 140.2l7.1-0.5l7.1-1l7-2.5l7.1-4.3l7.1-4.1l7.1-3.1l7.1-3.3l7.1-1.8l7.1-1.2l7-1l7.1 2.4l7.1 5.4l7.1 4.4l7.1 2.1l7 1.1l7.1-1.2l7.1-0.9l7.1-1.6l7.1-17.7l7.1-22.9l7.1-16.6l7-7.6l7.1-3.7l7.1-1.9l7.1-2l7.1-1.1l7-1l7.1-0.5l7.1-0.9l7.1-1.5"/>
<path stroke="#0072BD" d="M43.8 112.1l7.1 1.4l7.1-0.2l7-1.7l7.1-5.5l7.1-6.9l7.1-6.6l7.1-4.2l7.1-2.7l7.1-3l7-3l7.1 0.9l7.1 4.6l7.1 3.3l7.1 2.8l7-0.8l7.1-4.5l7.1-0.3l7.1-5.1l7.1-17.9l7.1-16.5l7.1-11.4l7-5.5l7.1-2.1l7.1-2l7.1-2.5l7.1-1.8l7-1.2l7.1-1.3l7.1-2.4l7.1-1.1"/>
<path stroke="#D95319" d="M43.8 140.9l7.1-0.6l7.1-2.3l7-2.9l7.1-3.8l7.1-3.8l7.1-5.6l7.1-3.2l7.1-3.1l7.1-2.4l7-1.8l7.1-0.4l7.1 4.7l7.1 4.5l7.1 0.9l7 0.5l7.1-1.4l7.1-0.8l7.1-1.9l7.1-17l7.1-21.3l7.1-14.1l7-7.7l7.1-3l7.1-1.3l7.1-1.8l7.1-1.7l7-1.5l7.1 0l7.1-1.2l7.1-0.3"/>
<path stroke="#EDB120" d="M43.8 104.7l7.1 3.3l7.1 2.6l7-1.3l7.1-6.2l7.1-6.2l7.1-3.7l7.1-1.5l7.1-2.2l7.1-1.5l7-1.3l7.1 0.5l7.1 3.9l7.1 5.1l7.1 2.2l7-0.4l7.1-1.3l7.1-0.3l7.1-5.2l7.1-17.6l7.1-18.1l7.1-12.6l7-6.7l7.1-3.8l7.1-2.4l7.1-2.2l7.1-2.3l7-2.3l7.1-2.1l7.1-2.1l7.1-1.7"/>
<path stroke="#7E2F8E" d="M43.8 129.5l7.1 0.7l7.1 0.2l7-1l7.1-3.9l7.1-4.1l7.1-3.8l7.1-2.6l7.1-3.3l7.1-1.9l7-1.6l7.1-0.2l7.1 5.5l7.1 5.2l7.1 2.1l7-0.4l7.1-2.4l7.1-2.2l7.1-2.6l7.1-18.9l7.1-21.6l7.1-15.6l7-8.1l7.1-3.5l7.1-2.8l7.1-2.3l7.1-2.6l7-1.2l7.1-1.1l7.1-1.9l7.1-1.1"/>
<path stroke="#77AC30" d="M43.8 144.4l7.1-1.5l7.1-2.8l7-2.4l7.1-4l7.1-4.8l7.1-5.1l7.1-2.2l7.1-3.2l7.1-3.1l7-2.4l7.1-0.7l7.1 3.8l7.1 3.4l7.1 0.7l7-0.2l7.1-2.2l7.1-2.1l7.1-3.2l7.1-18.1l7.1-21.7l7.1-14.8l7-7.6l7.1-4l7.1-2.5l7.1-1.9l7.1-2l7-2.6l7.1-2.6l7.1-1.9l7.1-1.7"/>
<path stroke="#4DBEEE" d="M43.8 120.8l7.1 0.8l7.1 0.4l7-2.7l7.1-4.5l7.1-6l7.1-4.7l7.1-4.4l7.1-2.5l7.1-2.7l7-2.1l7.1-0.1l7.1 4.6l7.1 3.2l7.1 2.8l7-2.1l7.1-4.4l7.1 0.6l7.1-3.2l7.1-19l7.1-18.9l7.1-12.7l7-6.9l7.1-2.8l7.1-3.7l7.1-2l7.1-2l7-1.8l7.1-1.3l7.1-1.9l7.1-2.4"/>
<path stroke="#A2142F" d="M43.8 124l7.1 0.9l7.1-0.9l7-2.7l7.1-5.4l7.1-5.4l7.1-3.6l7.1-3.3l7.1-2l7.1-1.6l7-2.2l7.1-1l7.1 5.5l7.1 5.1l7.1 3.9l7-2.2l7.1-3.5l7.1 1.3l7.1-0.2l7.1-18l7.1-19.6l7.1-13.9l7-6.9l7.1-2.2l7.1-1.4l7.1-1l7.1-1.1l7-0.7l7.1-0.8l7.1-0.4l7.1-1.5"/>
<path stroke="#0072BD" d="M43.8 118.4l7.1 2.3l7.1 0.5l7-1.7l7.1-4.3l7.1-5.1l7.1-5.6l7.1-2.7l7.1-2.2l7.1-1.4l7-1l7.1 0.7l7.1 5.4l7.1 4.8l7.1 2.2l7 0.4l7.1-2.2l7.1 0.9l7.1-1l7.1-18.3l7.1-20.2l7.1-15.3l7-6.4l7.1-3l7.1-2.3l7.1-1.2l7.1-0.8l7-1.8l7.1-1l7.1-0.9l7.1-0.7"/>
<path stroke="#D95319" d="M43.8 118.8l7.1 1.3l7.1-0.4l7-1.5l7.1-6.2l7.1-5.7l7.1-5.4l7.1-3.3l7.1-3.2l7.1-2.2l7-1.9l7.1-1l7.1 4.8l7.1 3.5l7.1 2.1l7-1l7.1-3.3l7.1-1.8l7.1-4.8l7.1-18l7.1-19l7.1-12.2l7-6.2l7.1-2.4l7.1-3.1l7.1-2.3l7.1-1.4l7-1.9l7.1-1.2l7.1-2.2l7.1-0.9"/>
<path stroke="#EDB120" d="M43.8 103.2l7.1 3.3l7.1 2.2l7-1.7l7.1-6.4l7.1-5.9l7.1-5.9l7.1-3.4l7.1-3l7.1-1.7l7-1.3l7.1 0.8l7.1 3.9l7.1 5.2l7.1 1.6l7-0.3l7.1-1.8l7.1-0.4l7.1-3.9l7.1-15.4l7.1-17l7.1-12l7-4.9l7.1-3.1l7.1-1.6l7.1-1.1l7.1-0.8l7-0.5l7.1-0.3l7.1-1.6l7.1-0.3"/>
<path stroke="#7E2F8E" d="M43.8 138.5l7.1-1.2l7.1-0.9l7-3.6l7.1-5.4l7.1-5.4l7.1-4.6l7.1-3.7l7.1-3.1l7.1-3.7l7-1.8l7.1 0.7l7.1 3.1l7.1 4l7.1 2.1l7-2.2l7.1-4.1l7.1-0.2l7.1-3.3l7.1-20.2l7.1-21.5l7.1-14.4l7-6.5l7.1-4.3l7.1-3.4l7.1-2.8l7.1-2.1l7-1.5l7.1-2l7.1-2.4l7.1-1.5"/>
<path stroke="#77AC30" d="M43.8 117.1l7.1 1.8l7.1-1.4l7-2.9l7.1-5.7l7.1-7l7.1-6.6l7.1-3.9l7.1-2.9l7.1-2.8l7-3.8l7.1-0.5l7.1 3.3l7.1 2.8l7.1 1.6l7-2.5l7.1-4.3l7.1-1.7l7.1-6.6l7.1-18.6l7.1-17.9l7.1-9.5l7-5.1l7.1-1.9l7.1-2.2l7.1-1.6l7.1-1.1l7-1.6l7.1-0.7l7.1-1.4l7.1-1.3"/>
<path stroke="#4DBEEE" d="M43.8 134.1l7.1-0.3l7.1-1l7-3l7.1-5l7.1-5.4l7.1-4.9l7.1-4.5l7.1-2.8l7.1-2.9l7-1.9l7.1-1.4l7.1 4.3l7.1 4.3l7.1 2.9l7-1.4l7.1-4.4l7.1 0.1l7.1-3.4l7.1-17.4l7.1-20.7l7.1-13.5l7-6.8l7.1-3.4l7.1-2.8l7.1-1.5l7.1-1.7l7-1.8l7.1-1l7.1-0.9l7.1-0.9"/>
<path stroke="#A2142F" d="M43.8 117.7l7.1 0.3l7.1 0.5l7-1.8l7.1-5.9l7.1-6.6l7.1-6.2l7.1-4.1l7.1-3.1l7.1-2.9l7-3.5l7.1-0.8l7.1 4l7.1 2l7.1 2.5l7-2.6l7.1-5l7.1-1.2l7.1-4.9l7.1-18.4l7.1-17l7.1-11.6l7-5.3l7.1-3l7.1-3l7.1-2.1l7.1-1.5l7-0.9l7.1-1.9l7.1-1.6l7.1-0.9"/>
<path stroke="#0072BD" d="M43.8 111.7l7.1 1.5l7.1 1.2l7-1.4l7.1-6l7.1-6.1l7.1-5.4l7.1-2.9l7.1-2.2l7.1-1.9l7-2.3l7.1 0.1l7.1 4.3l7.1 4.3l7.1 2.7l7-2l7.1-1.9l7.1 0.9l7.1-4.8l7.1-18l7.1-17.5l7.1-12.3l7-5.8l7.1-1.9l7.1-1.8l7.1-1.6l7.1-1.4l7-1.3l7.1-0.8l7.1-0.5l7.1-0.2"/>
<path stroke="#D95319" d="M43.8 129.4l7.1 0.6l7.1-0.3l7-2l7.1-5.1l7.1-5.1l7.1-4.3l7.1-4l7.1-2.9l7.1-1.1l7-2.4l7.1 0.2l7.1 4.8l7.1 3.9l7.1 1.5l7 0.2l7.1-4.7l7.1 0.6l7.1-2.1l7.1-19.3l7.1-20.1l7.1-14.1l7-6l7.1-3.9l7.1-1.8l7.1-1.5l7.1-1.4l7-1.9l7.1-0.5l7.1-1.1l7.1-0.9"/>
<path stroke="#EDB120" d="M43.8 108.9l7.1 3.1l7.1 1.3l7-2.1l7.1-5.6l7.1-6.1l7.1-5.4l7.1-2.7l7.1-1.9l7.1-0.7l7-1.7l7.1 2.8l7.1 5.1l7.1 4.7l7.1 3l7-0.1l7.1-2.5l7.1 0.1l7.1-3.1l7.1-18l7.1-18.4l7.1-11.9l7-6.3l7.1-3.7l7.1-1.8l7.1-1.9l7.1-0.9l7-0.8l7.1-1.8l7.1-0.1l7.1-1.4"/>
<path stroke="#7E2F8E" d="M43.8 120.5l7.1 1.5l7.1 0.1l7-0.7l7.1-4.6l7.1-5.1l7.1-3.2l7.1-2l7.1-3.6l7.1-1.6l7-1.1l7.1 1l7.1 5.8l7.1 5.4l7.1 3.8l7 1l7.1-3.5l7.1 2.2l7.1 0.1l7.1-18.5l7.1-20.2l7.1-15.4l7-6.9l7.1-3l7.1-1.6l7.1-1.2l7.1-1.1l7-0.7l7.1-0.6l7.1-1.3l7.1-0.2"/>
<path stroke="#77AC30" d="M43.8 127.7l7.1 0.3l7.1 0.4l7-2.3l7.1-5.5l7.1-5.5l7.1-4.5l7.1-2.4l7.1-2.2l7.1-1.1l7-1.2l7.1 0.6l7.1 4.9l7.1 5.5l7.1 3.6l7-0.7l7.1-5.9l7.1 2l7.1-0.8l7.1-20l7.1-21.7l7.1-13.3l7-7.3l7.1-2.5l7.1-1l7.1-2.4l7.1-2.1l7 0l7.1-1.4l7.1 0.5l7.1-2"/>
<path stroke="#4DBEEE" d="M43.8 117.6l7.1 1.6l7.1-0.4l7-2.3l7.1-4.3l7.1-6.2l7.1-4.5l7.1-4.1l7.1-1.7l7.1-2.2l7-2.1l7.1 0.9l7.1 3.8l7.1 4.5l7.1 0.4l7 0.1l7.1-1.7l7.1-2.3l7.1-5.5l7.1-18.1l7.1-17.4l7.1-11.8l7-6.3l7.1-3.3l7.1-2.3l7.1-2.3l7.1-1.6l7-1l7.1-1.1l7.1-1.7l7.1-0.1"/>
<path stroke="#A2142F" d="M43.8 110.5l7.1 3.5l7.1 0.8l7-0.2l7.1-4.5l7.1-4.6l7.1-4.2l7.1-2.2l7.1-2.5l7.1-1.4l7 0.3l7.1 1.6l7.1 5.8l7.1 5.1l7.1 4.6l7 0.9l7.1-1.9l7.1 1.4l7.1-2l7.1-15.9l7.1-19.6l7.1-12.9l7-7.1l7.1-2.6l7.1-1.4l7.1-1.5l7.1-0.3l7-0.7l7.1-0.4l7.1 0.7l7.1-0.5"/>
<path stroke="#0072BD" d="M43.8 133.6l7.1 0.6l7.1-1.1l7-1.9l7.1-3.8l7.1-4.8l7.1-4l7.1-2.6l7.1-1.2l7.1-2.3l7-2.2l7.1 1.4l7.1 5.7l7.1 4.9l7.1 1.3l7 0.8l7.1-2.3l7.1 0.3l7.1-0.5l7.1-17.3l7.1-22l7.1-15.6l7-7.6l7.1-2.6l7.1-2.2l7.1-1.4l7.1-2.5l7-0.4l7.1 0l7.1-0.3l7.1-0.5"/>
<path stroke="#D95319" d="M43.8 139.9l7.1-1.2l7.1-0.9l7-1.9l7.1-4.1l7.1-5.8l7.1-4.3l7.1-3.6l7.1-3.3l7.1-2.6l7-0.6l7.1 0.3l7.1 5.3l7.1 4.6l7.1 1l7 1.5l7.1-1l7.1-1.6l7.1-0.9l7.1-17.6l7.1-20.8l7.1-14.9l7-6.6l7.1-4.1l7.1-0.9l7.1-1.4l7.1-1.4l7-0.4l7.1 0.5l7.1-1.1l7.1-0.3"/>
<path stroke="#EDB120" d="M43.8 121l7.1 1.2l7.1 0.5l7-0.5l7.1-5.5l7.1-4.4l7.1-4.8l7.1-2.5l7.1-2.3l7.1-2.1l7-0.9l7.1 0.3l7.1 5.2l7.1 4.7l7.1 2.1l7 0.6l7.1-2.6l7.1-0.6l7.1-3l7.1-18.1l7.1-20.4l7.1-13.6l7-7.2l7.1-2.5l7.1-1.4l7.1-1.8l7.1-2l7-1.3l7.1 0l7.1-1.2l7.1-0.5"/>
<path stroke="#7E2F8E" d="M43.8 120.5l7.1 1.8l7.1 0l7-2l7.1-6.3l7.1-6l7.1-6.6l7.1-4.4l7.1-1.7l7.1-2.1l7-1.8l7.1 0.4l7.1 5.2l7.1 4.1l7.1 2.4l7-0.9l7.1-3l7.1 0.7l7.1-2.8l7.1-17l7.1-19.3l7.1-11.7l7-6.2l7.1-1.7l7.1-1.5l7.1-2l7.1-0.5l7 0.1l7.1-1.2l7.1-0.1l7.1 0.2"/>
<path stroke="#77AC30" d="M43.8 124.7l7.1 0.6l7.1 0l7-2.5l7.1-5.7l7.1-5.5l7.1-5.9l7.1-4l7.1-2.5l7.1-1.4l7-2.7l7.1-0.4l7.1 4.5l7.1 4.4l7.1 2.4l7-1l7.1-4.2l7.1 0.6l7.1-2.4l7.1-18.5l7.1-19.1l7.1-13.4l7-6.5l7.1-2.9l7.1-2.7l7.1-1.7l7.1-2.6l7-1.6l7.1-1.6l7.1-1.6l7.1-0.5"/>
<path stroke="#4DBEEE" d="M43.8 140l7.1-1.3l7.1-2.2l7-1.7l7.1-3.5l7.1-4.5l7.1-6l7.1-4.1l7.1-2.3l7.1-3.1l7-1.8l7.1-0.1l7.1 2.5l7.1 3.7l7.1-0.2l7 0.1l7.1-4l7.1-1.6l7.1-3.8l7.1-18.9l7.1-21l7.1-15l7-6.6l7.1-3.6l7.1-1.9l7.1-2l7.1-1.6l7-2.3l7.1-1.6l7.1-1.1l7.1-1.8"/>
<path stroke="#A2142F" d="M43.8 123.7l7.1 2l7.1-0.3l7-0.7l7.1-5.3l7.1-5.6l7.1-4l7.1-2.3l7.1-3.4l7.1-3.2l7-2.7l7.1-0.3l7.1 4.7l7.1 3.9l7.1 0.7l7-2.3l7.1-2.8l7.1-2.4l7.1-6l7.1-17.1l7.1-19.5l7.1-14.3l7-8.1l7.1-3.3l7.1-4.2l7.1-1.8l7.1-1.6l7-0.9l7.1-2.5l7.1-1l7.1-2.4"/>
<path stroke="#0072BD" d="M43.8 144.4l7.1-1.4l7.1-0.9l7-2.4l7.1-5l7.1-6l7.1-4.9l7.1-3.5l7.1-4.1l7.1-2.8l7-1l7.1-1.2l7.1 4.2l7.1 3.5l7.1 1.1l7-1.3l7.1-2.6l7.1-3l7.1-4l7.1-20.6l7.1-21.1l7.1-15.1l7-8.1l7.1-3.4l7.1-3l7.1-1.8l7.1-2.7l7-2.3l7.1-1.1l7.1-2.9l7.1-1.4"/>
<path stroke="#D95319" d="M43.8 128.5l7.1 0.7l7.1 0.6l7-1.1l7.1-3.4l7.1-4.3l7.1-2.5l7.1-2.7l7.1-1.5l7.1-1l7-0.1l7.1 1.8l7.1 5.5l7.1 6l7.1 3.4l7 2.8l7.1-1.6l7.1-0.9l7.1-0.6l7.1-18.1l7.1-23.1l7.1-16.6l7-7.6l7.1-3.5l7.1-1.9l7.1-1.8l7.1-1.3l7-0.8l7.1-1.2l7.1-0.9l7.1-0.9"/>
<path stroke="#EDB120" d="M43.8 136.5l7.1-0.8l7.1-1.5l7-2.3l7.1-4.6l7.1-5.7l7.1-4l7.1-3.9l7.1-2l7.1-2.2l7-2.1l7.1-0.6l7.1 4.5l7.1 4.4l7.1 1.1l7 0.8l7.1-0.6l7.1-1.4l7.1-1.7l7.1-17.9l7.1-20.7l7.1-15.3l7-6.6l7.1-3.8l7.1-2l7.1-1.8l7.1-1l7-1.7l7.1-1.2l7.1-1.5l7.1-2.2"/>
<path stroke="#7E2F8E" d="M43.8 123.2l7.1 1l7.1-1.1l7-2.2l7.1-5.2l7.1-4.6l7.1-4.4l7.1-3.5l7.1-2.3l7.1-1.9l7-1.6l7.1-0.2l7.1 3.7l7.1 5.7l7.1 2.5l7-1.5l7.1-3.4l7.1-0.4l7.1-3l7.1-18.3l7.1-20.2l7.1-13l7-7.6l7.1-3l7.1-2.9l7.1-1.4l7.1-1.4l7-1.8l7.1-0.1l7.1-1.7l7.1-1.2"/>
<path stroke="#77AC30" d="M43.8 111.3l7.1 1.6l7.1 0.7l7-2l7.1-5.1l7.1-4.9l7.1-4.6l7.1-2.7l7.1-2l7.1-0.6l7-0.7l7.1 0.8l7.1 5.7l7.1 4.4l7.1 2.1l7 1.4l7.1-0.2l7.1-1.3l7.1-0.9l7.1-17.4l7.1-20l7.1-12.9l7-6.1l7.1-3.3l7.1-1.5l7.1-3.1l7.1 0.3l7-2.2l7.1-0.8l7.1-1.6l7.1-2.3"/>
<path stroke="#4DBEEE" d="M43.8 122.3l7.1 0.5l7.1-2l7-1.9l7.1-6l7.1-6.5l7.1-5.9l7.1-3.7l7.1-3.4l7.1-2l7-2.6l7.1 0.4l7.1 4.3l7.1 3.9l7.1 1.1l7 0.3l7.1-2.4l7.1-0.5l7.1-5l7.1-17.1l7.1-17.9l7.1-12.2l7-6.3l7.1-2.5l7.1-0.8l7.1-1.2l7.1-0.3l7-0.8l7.1-0.3l7.1-0.6l7.1 0"/>
<path stroke="#A2142F" d="M43.8 140l7.1-1.4l7.1-1.6l7-1.3l7.1-3.8l7.1-5.6l7.1-3.9l7.1-2.9l7.1-2.9l7.1-2.8l7-0.8l7.1-1l7.1 4.9l7.1 5.7l7.1 1.4l7-0.6l7.1-2.8l7.1-1.8l7.1-2.3l7.1-18.3l7.1-21.4l7.1-14.9l7-7.5l7.1-3.7l7.1-2.6l7.1-2.1l7.1-1.7l7-1l7.1-0.4l7.1-0.7l7.1-1.1"/>
<path stroke="#0072BD" d="M43.8 127.8l7.1 0.9l7.1 0.6l7-1.9l7.1-3.8l7.1-3.7l7.1-3.7l7.1-1.6l7.1-2.3l7.1-1.7l7-1.2l7.1 1.6l7.1 3.8l7.1 5.1l7.1 0.7l7 1.7l7.1-0.5l7.1-1l7.1-1.9l7.1-17.4l7.1-19.6l7.1-14.5l7-6.7l7.1-2.7l7.1-1.2l7.1-0.9l7.1-0.4l7-0.8l7.1-1.2l7.1-0.4l7.1-1.2"/>
<path stroke="#D95319" d="M43.8 122.4l7.1 2.1l7.1 1.2l7-1.1l7.1-4.7l7.1-3.3l7.1-4l7.1-2.2l7.1-2.9l7.1-0.8l7-0.1l7.1-0.1l7.1 5.6l7.1 5.5l7.1 0.3l7 2l7.1 0.7l7.1-1.6l7.1-3.2l7.1-16.7l7.1-20.7l7.1-15.2l7-6.6l7.1-3.6l7.1-2.2l7.1-1.7l7.1-0.8l7-0.7l7.1-0.9l7.1-1.2l7.1-0.4"/>
<path stroke="#EDB120" d="M43.8 140.4l7.1-1.4l7.1-2.1l7-2.6l7.1-5.2l7.1-5.3l7.1-5l7.1-5.1l7.1-3.9l7.1-2.3l7-3l7.1-1.5l7.1 4.3l7.1 3l7.1 0.7l7 0.1l7.1-0.6l7.1-3.3l7.1-3.9l7.1-16.8l7.1-21.1l7.1-12.9l7-7.8l7.1-4.5l7.1-1.8l7.1-2.1l7.1-1.7l7-1.8l7.1-2.3l7.1-1.5l7.1-3.6"/>
<path stroke="#7E2F8E" d="M43.8 126.7l7.1 0.1l7.1-0.3l7-3.1l7.1-4.9l7.1-5.5l7.1-5.1l7.1-3.1l7.1-2.8l7.1-1.5l7-0.8l7.1 0.2l7.1 3.8l7.1 4.2l7.1 2.3l7-1.8l7.1-2.9l7.1-0.8l7.1-3.8l7.1-18.6l7.1-20l7.1-12.8l7-6.4l7.1-3l7.1-3.2l7.1-1.7l7.1-0.9l7-1l7.1-2l7.1-2.3l7.1-1.6"/>
<path stroke="#77AC30" d="M43.8 131.2l7.1-0.4l7.1-0.7l7-2.6l7.1-4l7.1-5l7.1-5.2l7.1-2.8l7.1-3.3l7.1-3l7-1.8l7.1-0.5l7.1 4.6l7.1 4.2l7.1 1.6l7 0.3l7.1-3.9l7.1-0.5l7.1-3.5l7.1-16.4l7.1-20.5l7.1-13.2l7-7l7.1-2.9l7.1-2.1l7.1-1.9l7.1-2l7-0.9l7.1-1.2l7.1-1.2l7.1-1.6"/>
<path stroke="#4DBEEE" d="M43.8 100.4l7.1 3.7l7.1 1l7-1.2l7.1-6.8l7.1-6.8l7.1-5.6l7.1-3.8l7.1-1.8l7.1-2.7l7-1.6l7.1-0.9l7.1 3.5l7.1 3.1l7.1 0.4l7-1.5l7.1-2.4l7.1-1.8l7.1-6.7l7.1-15.1l7.1-16.4l7.1-9.1l7-5.3l7.1-1.9l7.1-2l7.1-1.9l7.1-0.6l7-1.2l7.1-1.5l7.1-1.2l7.1-1.2"/>
<path stroke="#A2142F" d="M43.8 126.7l7.1 1.4l7.1-1.2l7-2.6l7.1-4.4l7.1-4.9l7.1-5.2l7.1-3.2l7.1-3.4l7.1-1.8l7-1.9l7.1-0.5l7.1 4.8l7.1 4.3l7.1 2.4l7-1.5l7.1-4.4l7.1 0.3l7.1-2.2l7.1-19.6l7.1-20.6l7.1-13.4l7-6l7.1-2.5l7.1-1.9l7.1-1.4l7.1-1.9l7-0.5l7.1 0.2l7.1-1l7.1-0.6"/>
<path stroke="#0072BD" d="M43.8 119.4l7.1 2.3l7.1 1.1l7-2.3l7.1-4.2l7.1-4.5l7.1-3.5l7.1-1l7.1 0l7.1-1l7-1l7.1 1.8l7.1 6.8l7.1 6.3l7.1 4.9l7 2.2l7.1-1.7l7.1 2.4l7.1-0.4l7.1-16.6l7.1-23l7.1-15.8l7-8.3l7.1-3.2l7.1-2l7.1-1.6l7.1-1.9l7-1l7.1-0.6l7.1-0.7l7.1-0.9"/>
<path stroke="#D95319" d="M43.8 137.4l7.1-1.9l7.1-1.5l7-3.1l7.1-5.8l7.1-6.2l7.1-5.8l7.1-3.7l7.1-2.6l7.1-3.4l7-3.3l7.1 0.1l7.1 4.4l7.1 3.6l7.1 2.9l7-1.6l7.1-2.8l7.1 0.6l7.1-2.8l7.1-18.2l7.1-20.3l7.1-13.5l7-6.2l7.1-3l7.1-2.1l7.1-1l7.1-0.8l7-1.5l7.1-1.6l7.1 0.1l7.1-2.1"/>
<path stroke="#EDB120" d="M43.8 104.6l7.1 3l7.1 1.2l7-0.8l7.1-6.2l7.1-5.7l7.1-4.3l7.1-3.4l7.1-1.5l7.1-2.4l7-2l7.1 0.2l7.1 4.8l7.1 3.5l7.1 0.7l7 0.3l7.1-1.8l7.1-1.2l7.1-4.2l7.1-15.3l7.1-18l7.1-11.1l7-6.4l7.1-2.6l7.1-2.1l7.1-1.5l7.1-0.6l7-1.1l7.1-0.9l7.1 0l7.1-0.8"/>
<path stroke="#7E2F8E" d="M43.8 113.3l7.1 2.2l7.1 0.7l7-2.3l7.1-5.1l7.1-6.5l7.1-4.7l7.1-3.5l7.1-2.3l7.1-2.3l7-1l7.1-0.5l7.1 4.9l7.1 3l7.1 2.7l7-0.2l7.1-2.9l7.1-0.3l7.1-4.8l7.1-16.2l7.1-17.5l7.1-11.5l7-5.9l7.1-2l7.1-1.2l7.1-2.1l7.1-0.4l7-0.9l7.1-1.4l7.1-0.7l7.1-0.6"/>
<path stroke="#77AC30" d="M43.8 112.6l7.1 3.5l7.1 0l7-1.9l7.1-4.9l7.1-6.3l7.1-4.7l7.1-4l7.1-1.3l7.1-2.8l7-1.4l7.1-0.2l7.1 4.5l7.1 4l7.1 1.6l7-0.6l7.1-2.7l7.1-0.6l7.1-3.6l7.1-17.8l7.1-18.2l7.1-11.6l7-6.5l7.1-2.8l7.1-1.6l7.1-1.8l7.1-0.5l7-1.2l7.1-0.5l7.1-1.5l7.1-0.6"/>
<path stroke="#4DBEEE" d="M43.8 132.1l7.1 0.7l7.1 0.9l7-2.5l7.1-3.9l7.1-4.4l7.1-4.1l7.1-3.3l7.1-0.8l7.1-1.5l7-1.2l7.1 1.4l7.1 6.2l7.1 5.2l7.1 7.1l7-1.5l7.1-4.4l7.1 5.2l7.1 0.7l7.1-20.4l7.1-23l7.1-17l7-7.1l7.1-3.9l7.1-1.9l7.1-1.5l7.1-1.8l7-0.6l7.1-1l7.1-0.9l7.1-0.6"/>
<path stroke="#A2142F" d="M43.8 107.3l7.1 2.9l7.1 2.3l7-2.4l7.1-5.3l7.1-5.8l7.1-3.9l7.1-2.3l7.1-2.3l7.1-1.9l7-1l7.1 1.4l7.1 6.1l7.1 4.5l7.1 3.9l7 0.5l7.1-2.8l7.1 0.1l7.1-2.4l7.1-17.4l7.1-18.9l7.1-13.3l7-5.3l7.1-3.2l7.1-1.1l7.1-0.8l7.1-1.4l7-1.2l7.1-0.4l7.1-1.5l7.1 0"/>
<path stroke="#0072BD" d="M43.8 123.3l7.1 0.1l7.1 0.8l7-2l7.1-5.7l7.1-6.2l7.1-3.6l7.1-3.4l7.1-2.6l7.1-1.5l7-2.2l7.1 0.6l7.1 4.9l7.1 4l7.1 2.8l7-0.4l7.1-3.3l7.1 0.6l7.1-1.8l7.1-18.9l7.1-19.8l7.1-12.4l7-7.1l7.1-2.4l7.1-2l7.1-1l7.1-1.4l7-0.7l7.1-1.4l7.1-0.3l7.1-1.3"/>
<path stroke="#D95319" d="M43.8 144.3l7.1-1.1l7.1-1.4l7-2.5l7.1-3.3l7.1-6.6l7.1-6l7.1-4.1l7.1-4.5l7.1-3.9l7-4l7.1-1l7.1 2.2l7.1 2.9l7.1 0.1l7-0.4l7.1-2.4l7.1-2.8l7.1-3.1l7.1-17.6l7.1-21.5l7.1-12.2l7-7.5l7.1-4.3l7.1-2.2l7.1-1.4l7.1-2.1l7-0.8l7.1-1.5l7.1-1.7l7.1-2.1"/>
<path stroke="#EDB120" d="M43.8 120.6l7.1 0.8l7.1 1l7-1.3l7.1-4.3l7.1-5.1l7.1-4.7l7.1-3.2l7.1-2.8l7.1-1.4l7-2.3l7.1 1.4l7.1 5.3l7.1 4.7l7.1 2.8l7-0.5l7.1-2.2l7.1 0.5l7.1-2.3l7.1-17.4l7.1-20.1l7.1-13.1l7-7.1l7.1-2.4l7.1-0.3l7.1-1.8l7.1 0.2l7-0.4l7.1-1.6l7.1 0.4l7.1-0.2"/>
<path stroke="#7E2F8E" d="M43.8 115.1l7.1 1.8l7.1 0.7l7-1.9l7.1-6.6l7.1-6l7.1-4.6l7.1-4.2l7.1-1.4l7.1-2.7l7-2.3l7.1 0.3l7.1 3.9l7.1 3.7l7.1 2.6l7-0.4l7.1-4.2l7.1-0.2l7.1-3.7l7.1-18l7.1-17.9l7.1-11.4l7-5.2l7.1-2.9l7.1-1l7.1-2.5l7.1-0.6l7 0.1l7.1-0.7l7.1-0.9l7.1 0.4"/>
<path stroke="#77AC30" d="M43.8 110.5l7.1 2.4l7.1 1.5l7-2.1l7.1-5l7.1-6.4l7.1-5.7l7.1-4.3l7.1-2.2l7.1-1.6l7-2l7.1 1.2l7.1 4.6l7.1 4.4l7.1 1.5l7-0.6l7.1-1.6l7.1-2.8l7.1-4.2l7.1-15.9l7.1-18.6l7.1-11l7-5.4l7.1-2.6l7.1-1.2l7.1-1.9l7.1-0.7l7-1.1l7.1 0l7.1-1.1l7.1-1.6"/>
<path stroke="#4DBEEE" d="M43.8 109.4l7.1 3.6l7.1 1.3l7-1.1l7.1-6.3l7.1-6.5l7.1-3.2l7.1-2.4l7.1-3l7.1-2.2l7-0.3l7.1 0.2l7.1 5.1l7.1 4.7l7.1 2.3l7 0.3l7.1-1.4l7.1-0.1l7.1-2.3l7.1-15.4l7.1-18.4l7.1-12.5l7-5.7l7.1-2l7.1-0.7l7.1-0.8l7.1-0.1l7 0l7.1-0.6l7.1 0.3l7.1 0.5"/>
<path stroke="#A2142F" d="M43.8 113.4l7.1 1.7l7.1 1.2l7-1.9l7.1-5.2l7.1-6.2l7.1-6.9l7.1-4.2l7.1-3.8l7.1-2.8l7-2.3l7.1-1.6l7.1 3.3l7.1 2.5l7.1 0.4l7-2.6l7.1-4.7l7.1-2.1l7.1-7.2l7.1-17.8l7.1-15.7l7.1-10.1l7-4.5l7.1-2.3l7.1-2l7.1-1.6l7.1-1l7-1.8l7.1-0.5l7.1-1.3l7.1-1.1"/>
<path stroke="#0072BD" d="M43.8 119.8l7.1 0.6l7.1 0.9l7-2.1l7.1-5l7.1-6.3l7.1-6l7.1-3.6l7.1-3.2l7.1-3.3l7-2.7l7.1-0.1l7.1 3.8l7.1 2.1l7.1 1.6l7-2.4l7.1-1.8l7.1-0.3l7.1-4l7.1-17.5l7.1-17.4l7.1-12.7l7-5.2l7.1-2.9l7.1-1.3l7.1-1.2l7.1-0.4l7-1.2l7.1-0.2l7.1-0.3l7.1-0.1"/>
<path stroke="#D95319" d="M43.8 125.5l7.1 1.3l7.1-0.1l7-1l7.1-4.9l7.1-4.4l7.1-4.3l7.1-2.7l7.1-1.9l7.1-1.6l7-1.2l7.1 0.8l7.1 5l7.1 4.9l7.1 2.6l7 0.1l7.1-2.1l7.1 0.4l7.1-1.9l7.1-16.3l7.1-21.2l7.1-14.7l7-6.7l7.1-2.9l7.1-2.3l7.1-1.7l7.1-0.8l7 0.3l7.1-0.7l7.1-0.7l7.1-0.9"/>
<path stroke="#EDB120" d="M43.8 136.3l7.1-0.3l7.1-1.7l7-3.5l7.1-3.7l7.1-5.4l7.1-4.1l7.1-3.1l7.1-1.7l7.1-2.5l7-1.8l7.1 0.3l7.1 4.3l7.1 4.8l7.1 1.8l7-0.8l7.1-2.1l7.1 1l7.1-1l7.1-17.6l7.1-21.9l7.1-14.5l7-8l7.1-2.8l7.1-2.2l7.1-0.5l7.1-1.4l7-1.6l7.1-0.4l7.1-2.2l7.1-2.2"/>
<path stroke="#7E2F8E" d="M43.8 115.5l7.1 1.7l7.1-0.3l7-1.9l7.1-6.5l7.1-6.9l7.1-5.8l7.1-3.5l7.1-2.2l7.1-3.6l7-2.3l7.1-0.3l7.1 3.7l7.1 4.9l7.1-0.7l7 0l7.1-1.3l7.1-2.4l7.1-5.5l7.1-15.8l7.1-16.8l7.1-11.9l7-5.5l7.1-2.6l7.1-2.5l7.1-1.7l7.1-1.6l7-0.1l7.1-1.6l7.1-1.7l7.1-1.1"/>
<path stroke="#77AC30" d="M43.8 113.9l7.1 2l7.1 1.1l7-1.5l7.1-6.1l7.1-5.8l7.1-4.9l7.1-3.4l7.1-2.8l7.1-1.6l7-1.8l7.1 0.1l7.1 5l7.1 4.9l7.1 5.9l7-3.4l7.1-7.1l7.1 3.9l7.1-2.5l7.1-20.4l7.1-19.5l7.1-10.9l7-7l7.1-2.5l7.1-1.7l7.1-1.9l7.1-1.6l7 0.9l7.1-1.2l7.1-0.4l7.1-0.7"/>
<path stroke="#4DBEEE" d="M43.8 124.7l7.1-0.8l7.1-1.9l7-2.8l7.1-6.6l7.1-6.8l7.1-6.8l7.1-4.3l7.1-2.3l7.1-2.7l7-2.5l7.1 0.3l7.1 4.8l7.1 3.5l7.1 2l7-1.2l7.1-2.3l7.1-0.1l7.1-2.9l7.1-19.2l7.1-19l7.1-11.7l7-5.7l7.1-3.4l7.1-3.2l7.1-2.7l7.1-2.3l7-1.5l7.1-2l7.1-2.6l7.1-1.4"/>
<path stroke="#A2142F" d="M43.8 130.8l7.1-0.9l7.1 0.4l7-2.7l7.1-3.7l7.1-5.6l7.1-5.1l7.1-2.7l7.1-2.5l7.1-2l7-1.6l7.1 0.5l7.1 3.7l7.1 5.6l7.1 1.1l7 0.4l7.1-2l7.1-0.6l7.1-2.7l7.1-18l7.1-19.8l7.1-14l7-6.7l7.1-3.7l7.1-0.7l7.1-1.6l7.1-0.4l7 0l7.1-0.2l7.1-0.8l7.1-1.4"/>
<path stroke="#0072BD" d="M43.8 118.2l7.1 1.1l7.1 0.3l7-2.1l7.1-5.9l7.1-6.6l7.1-4.6l7.1-2.6l7.1-3.5l7.1-1.5l7-2.3l7.1 1.1l7.1 4.1l7.1 4.3l7.1 2.6l7-2l7.1-4.3l7.1-1l7.1-3.4l7.1-17.5l7.1-19.2l7.1-12.9l7-6.1l7.1-3.5l7.1-2.1l7.1-1.5l7.1-2.4l7-1.9l7.1-1.3l7.1-1.8l7.1-2.1"/>
<path stroke="#D95319" d="M43.8 102.8l7.1 3.2l7.1 1.2l7-1.5l7.1-6.3l7.1-6.7l7.1-6.2l7.1-2.5l7.1-2.9l7.1-1.5l7-1.8l7.1 0.5l7.1 4.7l7.1 3.1l7.1 0.8l7-0.2l7.1-1.6l7.1-2.4l7.1-5.8l7.1-15l7.1-17.6l7.1-9.8l7-5.9l7.1-1.9l7.1-2.2l7.1-0.6l7.1-1.3l7-2.6l7.1-1.2l7.1-0.8l7.1-2"/>
<path stroke="#EDB120" d="M43.8 113.2l7.1 2.1l7.1 0.8l7-2.6l7.1-6.1l7.1-5.6l7.1-6l7.1-2.5l7.1-1.5l7.1-2.5l7-1.5l7.1-0.1l7.1 5.7l7.1 4.6l7.1 2.4l7-0.7l7.1-1.4l7.1-0.4l7.1-2.3l7.1-15.8l7.1-17.7l7.1-11.4l7-5.7l7.1-2.9l7.1-1.4l7.1-1.4l7.1-0.8l7 0.3l7.1-1.2l7.1-0.3l7.1-1.6"/>
<path stroke="#7E2F8E" d="M43.8 128.3l7.1 0.3l7.1-1.2l7-1.7l7.1-5.6l7.1-5.1l7.1-5.5l7.1-4.1l7.1-3.6l7.1-1.6l7-1.3l7.1 0.9l7.1 3.8l7.1 5.5l7.1 2.4l7-1.9l7.1-5.8l7.1 2.4l7.1-1.8l7.1-20.3l7.1-20.6l7.1-12.7l7-7l7.1-3.1l7.1-2.8l7.1-2.4l7.1-1.3l7-2.1l7.1-1.7l7.1-2.1l7.1-1.3"/>
<path stroke="#77AC30" d="M43.8 144.1l7.1-1l7.1-1.3l7-2.5l7.1-3.3l7.1-4.3l7.1-3.8l7.1-2.4l7.1-2.5l7.1-2l7-1.5l7.1 0.3l7.1 4.2l7.1 3.5l7.1 0.6l7 1l7.1-1.5l7.1-2.5l7.1-3.5l7.1-18.2l7.1-22.3l7.1-15l7-8.3l7.1-3.9l7.1-2.7l7.1-2.2l7.1-1.4l7-0.5l7.1-1l7.1 0.1l7.1-0.7"/>
<path stroke="#4DBEEE" d="M43.8 123.2l7.1-0.3l7.1-0.6l7-2.4l7.1-5.6l7.1-6.8l7.1-6.8l7.1-3.5l7.1-3.4l7.1-3.2l7-1.5l7.1-1.1l7.1 3.1l7.1 2.7l7.1 0.3l7-2l7.1-4l7.1-2.1l7.1-5.6l7.1-17.5l7.1-17.9l7.1-11.2l7-5.5l7.1-3.7l7.1-2.1l7.1-1.2l7.1-1.3l7-1.9l7.1-2.3l7.1-1.1l7.1-0.7"/>
<path stroke="#A2142F" d="M43.8 131.4l7.1 0.4l7.1 0.4l7-2.8l7.1-4l7.1-5l7.1-3.8l7.1-1.9l7.1-0.9l7.1-2.1l7-1.3l7.1 1.4l7.1 3.9l7.1 5l7.1 1.8l7-1.4l7.1-3.8l7.1-1l7.1-3.4l7.1-19.8l7.1-21.6l7.1-15.7l7-6.8l7.1-4.6l7.1-2.5l7.1-2l7.1-2.6l7-2.9l7.1-1.8l7.1-1.6l7.1-1.8"/>
<path stroke="#0072BD" d="M43.8 129.1l7.1 0.8l7.1-0.9l7-1.3l7.1-4.7l7.1-5.8l7.1-3.6l7.1-2.2l7.1-2.5l7.1-1.4l7-1.8l7.1-0.9l7.1 4.9l7.1 4.3l7.1-0.4l7 0.9l7.1-0.5l7.1-2l7.1-3.9l7.1-18.3l7.1-20.4l7.1-13.9l7-6l7.1-3.8l7.1-1.6l7.1-2.2l7.1-1.7l7 0.1l7.1-2.1l7.1-1l7.1-1.9"/>
<path stroke="#D95319" d="M43.8 127.2l7.1 1l7.1 0.2l7-2.4l7.1-6.2l7.1-5.9l7.1-5.2l7.1-4.4l7.1-3l7.1-2.4l7-2.5l7.1-0.9l7.1 4.8l7.1 4.6l7.1 2l7-1.2l7.1-2.9l7.1-1.4l7.1-1.7l7.1-17l7.1-20.2l7.1-11.6l7-6.7l7.1-2l7.1-1.4l7.1-1.2l7.1-1l7 0.1l7.1-0.8l7.1-0.5l7.1 0.5"/>
<path stroke="#EDB120" d="M43.8 121.7l7.1 1.5l7.1-0.5l7-2.6l7.1-7.2l7.1-6.3l7.1-6.7l7.1-4.2l7.1-4.3l7.1-2.8l7-2.6l7.1-0.1l7.1 3.2l7.1 3.9l7.1 2.3l7-1.2l7.1-1.1l7.1-0.6l7.1-3.4l7.1-15.9l7.1-17.7l7.1-11.8l7-5.2l7.1-2.5l7.1-1.3l7.1-0.7l7.1-0.3l7-1.5l7.1-0.2l7.1-1.6l7.1 0.2"/>
<path stroke="#7E2F8E" d="M43.8 118.2l7.1 1.6l7.1 0l7-2.4l7.1-5.4l7.1-6.5l7.1-5.1l7.1-3.5l7.1-2.3l7.1-2.1l7-2.6l7.1-0.1l7.1 4.4l7.1 5.5l7.1-0.2l7-0.3l7.1-1.4l7.1-2.6l7.1-4.3l7.1-15.5l7.1-17.6l7.1-12.6l7-6.3l7.1-2.8l7.1-1.6l7.1-0.8l7.1-0.9l7-0.7l7.1 0.2l7.1-0.8l7.1-1.2"/>
<path stroke="#77AC30" d="M43.8 134.1l7.1 0l7.1-0.3l7-1l7.1-4.3l7.1-5.7l7.1-4.5l7.1-3.3l7.1-4.1l7.1-2.8l7-3.7l7.1 0.9l7.1 3.3l7.1 3.6l7.1 2.4l7-2.9l7.1-5.5l7.1 0.1l7.1-2.2l7.1-20.5l7.1-19.2l7.1-13.7l7-8.2l7.1-3.7l7.1-1.3l7.1-2.1l7.1-1.5l7-0.9l7.1-0.7l7.1-0.5l7.1-0.2"/>
<path stroke="#4DBEEE" d="M43.8 133.7l7.1 0.4l7.1-0.8l7-2l7.1-4.2l7.1-4l7.1-3.1l7.1-2.5l7.1-1.4l7.1-1.7l7-2.2l7.1 1.7l7.1 5.4l7.1 4.4l7.1 3.8l7-1.4l7.1-3.8l7.1 2.3l7.1-0.4l7.1-20.2l7.1-22.1l7.1-15.1l7-7.3l7.1-3.5l7.1-1.2l7.1-2.2l7.1-1.1l7-0.7l7.1-0.1l7.1-1.5l7.1-0.8"/>
<path stroke="#A2142F" d="M43.8 111.1l7.1 2.5l7.1 1.6l7-1.6l7.1-4.7l7.1-5.2l7.1-5.3l7.1-2.4l7.1-1.6l7.1-1.3l7-0.9l7.1 1.6l7.1 6.1l7.1 5.2l7.1 5.4l7 0.5l7.1-1l7.1 2.2l7.1 1.7l7.1-16.3l7.1-18.4l7.1-13.8l7-6.2l7.1-2.3l7.1-0.3l7.1-0.5l7.1-0.5l7-1.1l7.1-1l7.1-0.6l7.1-0.7"/>
<path stroke="#0072BD" d="M43.8 129.4l7.1 0.9l7.1-0.2l7-3.4l7.1-4.1l7.1-4.3l7.1-4.1l7.1-2.7l7.1-1.6l7.1-2.4l7-1.6l7.1 0.2l7.1 5.2l7.1 5l7.1 1.8l7 1.7l7.1 0.5l7.1-1.6l7.1-2.4l7.1-16.5l7.1-20.6l7.1-14.7l7-7.7l7.1-2.3l7.1-2.3l7.1-1l7.1-1.9l7-1.4l7.1-0.1l7.1-0.6l7.1-1"/>
<path stroke="#D95319" d="M43.8 129.4l7.1-0.3l7.1 0.1l7-2.5l7.1-4.8l7.1-4.6l7.1-5.4l7.1-3.5l7.1-1.8l7.1-2l7-2.4l7.1 0.6l7.1 5.3l7.1 3.4l7.1 2.7l7-1.8l7.1-2.9l7.1-0.2l7.1-2.5l7.1-19.3l7.1-19.7l7.1-13.1l7-6.5l7.1-1.5l7.1-1.4l7.1-0.9l7.1-0.4l7-1l7.1-0.8l7.1-0.5l7.1 0"/>
<path stroke="#EDB120" d="M43.8 116.9l7.1 2.9l7.1-0.4l7-1.5l7.1-5.2l7.1-5.3l7.1-5.3l7.1-2.3l7.1-2.3l7.1-2.7l7-1.3l7.1 0.5l7.1 4.9l7.1 4.2l7.1 3.6l7-1.3l7.1-4.3l7.1 0.9l7.1-3.3l7.1-18.7l7.1-18.8l7.1-13.4l7-7l7.1-2.8l7.1-2.3l7.1-1.5l7.1-0.9l7-1.4l7.1-0.7l7.1-1.6l7.1-1.7"/>
<path stroke="#7E2F8E" d="M43.8 107.2l7.1 3.9l7.1 2l7-1.2l7.1-5.4l7.1-5.9l7.1-2.9l7.1-2.8l7.1-1.2l7.1-0.8l7 0.9l7.1 1.6l7.1 6.9l7.1 5.5l7.1 4.1l7 0.8l7.1-1.4l7.1 0.5l7.1-2.2l7.1-18.2l7.1-20.9l7.1-13.6l7-6.3l7.1-3.1l7.1-2.7l7.1-2.6l7.1-2.3l7-2l7.1-2.2l7.1-2l7.1-2.1"/>
<path stroke="#77AC30" d="M43.8 106l7.1 4.1l7.1 0.9l7-1.7l7.1-6.3l7.1-6.5l7.1-6.3l7.1-3l7.1-2.5l7.1-2.9l7-2.8l7.1 0.1l7.1 2.8l7.1 2.4l7.1 1.5l7-2.1l7.1-3.9l7.1-1.3l7.1-6l7.1-16.4l7.1-16.8l7.1-11l7-4.6l7.1-2.6l7.1-2.6l7.1-1.2l7.1-1.8l7-1l7.1-0.7l7.1 0.3l7.1-0.4"/>
<path stroke="#4DBEEE" d="M43.8 136.8l7.1-1.1l7.1-0.8l7-2.8l7.1-4.1l7.1-6l7.1-5.1l7.1-2.4l7.1-2.6l7.1-2.7l7-1.5l7.1 0.4l7.1 3.9l7.1 5.1l7.1 2.4l7 0l7.1-3.8l7.1 0l7.1-2.6l7.1-18.6l7.1-19.8l7.1-14.4l7-6.6l7.1-3l7.1-2.3l7.1-1.9l7.1-2l7-0.9l7.1-1.4l7.1-1.2l7.1-1"/>
<path stroke="#A2142F" d="M43.8 110.2l7.1 2.2l7.1 1.2l7-1.5l7.1-5.3l7.1-6.4l7.1-4.9l7.1-2.3l7.1-2.8l7.1-2l7-0.9l7.1 0.6l7.1 4.1l7.1 5.4l7.1 1.9l7-0.4l7.1-0.4l7.1-1.1l7.1-4.7l7.1-16.1l7.1-18.6l7.1-11.2l7-6.2l7.1-2l7.1-2l7.1-2.1l7.1-1.1l7-2.2l7.1-1.3l7.1-1.1l7.1-2.2"/>
<path stroke="#0072BD" d="M43.8 113.3l7.1 2.7l7.1 0.6l7-2.5l7.1-6.9l7.1-5.8l7.1-5l7.1-3.8l7.1-1.9l7.1-2.2l7-1.1l7.1-0.3l7.1 4.2l7.1 4l7.1 3.1l7-1.8l7.1-5.1l7.1 2.3l7.1-2.1l7.1-18.4l7.1-18.2l7.1-11.7l7-5.5l7.1-2.6l7.1-1.2l7.1-1.1l7.1-1.5l7-0.4l7.1-1.1l7.1 0.1l7.1-0.6"/>
</g>
<path d="M43.8 10.8H256.3V171.3H43.8Z" fill="none" stroke="#3c3c3c" stroke-width="0.95"/>
<path d="M114.6 171.3v-2.2M114.6 10.8v2.2M185.5 171.3v-2.2M185.5 10.8v2.2M43.8 118.9h2.2M256.3 118.9h-2.2M43.8 66.5h2.2M256.3 66.5h-2.2M43.8 14.1h2.2M256.3 14.1h-2.2" fill="none" stroke="#3c3c3c" stroke-width="0.8"/>
<text x="35.00" y="185.60" font-size="12.9" textLength="18.20" lengthAdjust="spacingAndGlyphs">400</text>
<text x="105.83" y="185.60" font-size="12.9" textLength="18.20" lengthAdjust="spacingAndGlyphs">500</text>
<text x="176.67" y="185.60" font-size="12.9" textLength="18.20" lengthAdjust="spacingAndGlyphs">600</text>
<text x="247.50" y="185.60" font-size="12.9" textLength="18.20" lengthAdjust="spacingAndGlyphs">700</text>
<text x="35.10" y="175.20" font-size="12.9" textLength="5.70" lengthAdjust="spacingAndGlyphs">0</text>
<text x="26.00" y="122.80" font-size="12.9" textLength="14.80" lengthAdjust="spacingAndGlyphs">0.2</text>
<text x="26.00" y="70.40" font-size="12.9" textLength="14.80" lengthAdjust="spacingAndGlyphs">0.4</text>
<text x="26.00" y="18.00" font-size="12.9" textLength="14.80" lengthAdjust="spacingAndGlyphs">0.6</text>
<text x="104.85" y="203.80" font-size="13.5" textLength="91.50" lengthAdjust="spacingAndGlyphs">wavelength/nm</text>
<text x="-12.30" y="90.50" font-size="13.5" textLength="62.00" lengthAdjust="spacingAndGlyphs" transform="rotate(-90 18.70 90.50)">reflectance</text>
<text x="137.70" y="223.20" font-size="12.6" textLength="14.40" lengthAdjust="spacingAndGlyphs">(a)</text>
<path fill="#0072BD" stroke="#0072BD" stroke-width="0.7" stroke-linejoin="round" d="M384.4 92.1l0.9 2.5l2.6 0.1l-2.1 1.6l0.7 2.5l-2.2-1.5l-2.2 1.5l0.7-2.5l-2.1-1.6l2.6-0.1zM387.8 85.5l0.9 2.5l2.6 0.1l-2.1 1.6l0.7 2.5l-2.2-1.5l-2.2 1.5l0.7-2.5l-2.1-1.6l2.6-0.1zM358.7 96.7l0.9 2.5l2.6 0.1l-2.1 1.6l0.7 2.5l-2.2-1.5l-2.2 1.5l0.7-2.5l-2.1-1.6l2.6-0.1zM407.3 88.5l0.9 2.5l2.6 0.1l-2.1 1.6l0.7 2.5l-2.2-1.5l-2.2 1.5l0.7-2.5l-2.1-1.6l2.6-0.1zM371.3 61.7l0.9 2.5l2.6 0.1l-2.1 1.6l0.7 2.5l-2.2-1.5l-2.2 1.5l0.7-2.5l-2.1-1.6l2.6-0.1zM404.7 87.1l0.9 2.5l2.6 0.1l-2.1 1.6l0.7 2.5l-2.2-1.5l-2.2 1.5l0.7-2.5l-2.1-1.6l2.6-0.1zM381.2 107.4l0.9 2.5l2.6 0.1l-2.1 1.6l0.7 2.5l-2.2-1.5l-2.2 1.5l0.7-2.5l-2.1-1.6l2.6-0.1zM426.3 117.1l0.9 2.5l2.6 0.1l-2.1 1.6l0.7 2.5l-2.2-1.5l-2.2 1.5l0.7-2.5l-2.1-1.6l2.6-0.1zM416.3 69l0.9 2.5l2.6 0.1l-2.1 1.6l0.7 2.5l-2.2-1.5l-2.2 1.5l0.7-2.5l-2.1-1.6l2.6-0.1zM398.1 100.9l0.9 2.5l2.6 0.1l-2.1 1.6l0.7 2.5l-2.2-1.5l-2.2 1.5l0.7-2.5l-2.1-1.6l2.6-0.1zM408 83.9l0.9 2.5l2.6 0.1l-2.1 1.6l0.7 2.5l-2.2-1.5l-2.2 1.5l0.7-2.5l-2.1-1.6l2.6-0.1zM483.2 94.6l0.9 2.5l2.6 0.1l-2.1 1.6l0.7 2.5l-2.2-1.5l-2.2 1.5l0.7-2.5l-2.1-1.6l2.6-0.1zM360.3 68.7l0.9 2.5l2.6 0.1l-2.1 1.6l0.7 2.5l-2.2-1.5l-2.2 1.5l0.7-2.5l-2.1-1.6l2.6-0.1zM372.8 108.3l0.9 2.5l2.6 0.1l-2.1 1.6l0.7 2.5l-2.2-1.5l-2.2 1.5l0.7-2.5l-2.1-1.6l2.6-0.1zM398.5 106.9l0.9 2.5l2.6 0.1l-2.1 1.6l0.7 2.5l-2.2-1.5l-2.2 1.5l0.7-2.5l-2.1-1.6l2.6-0.1zM435.4 117.3l0.9 2.5l2.6 0.1l-2.1 1.6l0.7 2.5l-2.2-1.5l-2.2 1.5l0.7-2.5l-2.1-1.6l2.6-0.1zM379.4 84.1l0.9 2.5l2.6 0.1l-2.1 1.6l0.7 2.5l-2.2-1.5l-2.2 1.5l0.7-2.5l-2.1-1.6l2.6-0.1zM394.5 99.5l0.9 2.5l2.6 0.1l-2.1 1.6l0.7 2.5l-2.2-1.5l-2.2 1.5l0.7-2.5l-2.1-1.6l2.6-0.1zM446.7 98.2l0.9 2.5l2.6 0.1l-2.1 1.6l0.7 2.5l-2.2-1.5l-2.2 1.5l0.7-2.5l-2.1-1.6l2.6-0.1zM415.2 97.4l0.9 2.5l2.6 0.1l-2.1 1.6l0.7 2.5l-2.2-1.5l-2.2 1.5l0.7-2.5l-2.1-1.6l2.6-0.1zM420.9 97.7l0.9 2.5l2.6 0.1l-2.1 1.6l0.7 2.5l-2.2-1.5l-2.2 1.5l0.7-2.5l-2.1-1.6l2.6-0.1zM408.4 70.9l0.9 2.5l2.6 0.1l-2.1 1.6l0.7 2.5l-2.2-1.5l-2.2 1.5l0.7-2.5l-2.1-1.6l2.6-0.1zM446.8 84.6l0.9 2.5l2.6 0.1l-2.1 1.6l0.7 2.5l-2.2-1.5l-2.2 1.5l0.7-2.5l-2.1-1.6l2.6-0.1zM456.3 93.9l0.9 2.5l2.6 0.1l-2.1 1.6l0.7 2.5l-2.2-1.5l-2.2 1.5l0.7-2.5l-2.1-1.6l2.6-0.1zM415 110.9l0.9 2.5l2.6 0.1l-2.1 1.6l0.7 2.5l-2.2-1.5l-2.2 1.5l0.7-2.5l-2.1-1.6l2.6-0.1zM456.6 108.2l0.9 2.5l2.6 0.1l-2.1 1.6l0.7 2.5l-2.2-1.5l-2.2 1.5l0.7-2.5l-2.1-1.6l2.6-0.1zM458.4 96l0.9 2.5l2.6 0.1l-2.1 1.6l0.7 2.5l-2.2-1.5l-2.2 1.5l0.7-2.5l-2.1-1.6l2.6-0.1zM420.4 92.4l0.9 2.5l2.6 0.1l-2.1 1.6l0.7 2.5l-2.2-1.5l-2.2 1.5l0.7-2.5l-2.1-1.6l2.6-0.1zM426.7 103.8l0.9 2.5l2.6 0.1l-2.1 1.6l0.7 2.5l-2.2-1.5l-2.2 1.5l0.7-2.5l-2.1-1.6l2.6-0.1zM438.5 82.7l0.9 2.5l2.6 0.1l-2.1 1.6l0.7 2.5l-2.2-1.5l-2.2 1.5l0.7-2.5l-2.1-1.6l2.6-0.1zM420.8 89.4l0.9 2.5l2.6 0.1l-2.1 1.6l0.7 2.5l-2.2-1.5l-2.2 1.5l0.7-2.5l-2.1-1.6l2.6-0.1zM369.3 82.1l0.9 2.5l2.6 0.1l-2.1 1.6l0.7 2.5l-2.2-1.5l-2.2 1.5l0.7-2.5l-2.1-1.6l2.6-0.1zM387.8 103.6l0.9 2.5l2.6 0.1l-2.1 1.6l0.7 2.5l-2.2-1.5l-2.2 1.5l0.7-2.5l-2.1-1.6l2.6-0.1zM385.8 106.2l0.9 2.5l2.6 0.1l-2.1 1.6l0.7 2.5l-2.2-1.5l-2.2 1.5l0.7-2.5l-2.1-1.6l2.6-0.1zM408.4 67.2l0.9 2.5l2.6 0.1l-2.1 1.6l0.7 2.5l-2.2-1.5l-2.2 1.5l0.7-2.5l-2.1-1.6l2.6-0.1zM435.2 119.8l0.9 2.5l2.6 0.1l-2.1 1.6l0.7 2.5l-2.2-1.5l-2.2 1.5l0.7-2.5l-2.1-1.6l2.6-0.1zM436.2 106l0.9 2.5l2.6 0.1l-2.1 1.6l0.7 2.5l-2.2-1.5l-2.2 1.5l0.7-2.5l-2.1-1.6l2.6-0.1zM467 96.1l0.9 2.5l2.6 0.1l-2.1 1.6l0.7 2.5l-2.2-1.5l-2.2 1.5l0.7-2.5l-2.1-1.6l2.6-0.1zM439.5 75.4l0.9 2.5l2.6 0.1l-2.1 1.6l0.7 2.5l-2.2-1.5l-2.2 1.5l0.7-2.5l-2.1-1.6l2.6-0.1zM462.3 92l0.9 2.5l2.6 0.1l-2.1 1.6l0.7 2.5l-2.2-1.5l-2.2 1.5l0.7-2.5l-2.1-1.6l2.6-0.1zM450.3 107.8l0.9 2.5l2.6 0.1l-2.1 1.6l0.7 2.5l-2.2-1.5l-2.2 1.5l0.7-2.5l-2.1-1.6l2.6-0.1zM386.9 117.1l0.9 2.5l2.6 0.1l-2.1 1.6l0.7 2.5l-2.2-1.5l-2.2 1.5l0.7-2.5l-2.1-1.6l2.6-0.1zM397.3 76.3l0.9 2.5l2.6 0.1l-2.1 1.6l0.7 2.5l-2.2-1.5l-2.2 1.5l0.7-2.5l-2.1-1.6l2.6-0.1zM414.1 65.2l0.9 2.5l2.6 0.1l-2.1 1.6l0.7 2.5l-2.2-1.5l-2.2 1.5l0.7-2.5l-2.1-1.6l2.6-0.1zM392.8 84.5l0.9 2.5l2.6 0.1l-2.1 1.6l0.7 2.5l-2.2-1.5l-2.2 1.5l0.7-2.5l-2.1-1.6l2.6-0.1zM436.1 105.5l0.9 2.5l2.6 0.1l-2.1 1.6l0.7 2.5l-2.2-1.5l-2.2 1.5l0.7-2.5l-2.1-1.6l2.6-0.1zM420.2 119l0.9 2.5l2.6 0.1l-2.1 1.6l0.7 2.5l-2.2-1.5l-2.2 1.5l0.7-2.5l-2.1-1.6l2.6-0.1zM391.4 100.3l0.9 2.5l2.6 0.1l-2.1 1.6l0.7 2.5l-2.2-1.5l-2.2 1.5l0.7-2.5l-2.1-1.6l2.6-0.1zM368.6 110.5l0.9 2.5l2.6 0.1l-2.1 1.6l0.7 2.5l-2.2-1.5l-2.2 1.5l0.7-2.5l-2.1-1.6l2.6-0.1zM396 87.4l0.9 2.5l2.6 0.1l-2.1 1.6l0.7 2.5l-2.2-1.5l-2.2 1.5l0.7-2.5l-2.1-1.6l2.6-0.1zM411.6 88.8l0.9 2.5l2.6 0.1l-2.1 1.6l0.7 2.5l-2.2-1.5l-2.2 1.5l0.7-2.5l-2.1-1.6l2.6-0.1zM450.2 87.4l0.9 2.5l2.6 0.1l-2.1 1.6l0.7 2.5l-2.2-1.5l-2.2 1.5l0.7-2.5l-2.1-1.6l2.6-0.1zM447 118.3l0.9 2.5l2.6 0.1l-2.1 1.6l0.7 2.5l-2.2-1.5l-2.2 1.5l0.7-2.5l-2.1-1.6l2.6-0.1zM457.8 102.5l0.9 2.5l2.6 0.1l-2.1 1.6l0.7 2.5l-2.2-1.5l-2.2 1.5l0.7-2.5l-2.1-1.6l2.6-0.1zM396.7 66l0.9 2.5l2.6 0.1l-2.1 1.6l0.7 2.5l-2.2-1.5l-2.2 1.5l0.7-2.5l-2.1-1.6l2.6-0.1zM411.6 94.1l0.9 2.5l2.6 0.1l-2.1 1.6l0.7 2.5l-2.2-1.5l-2.2 1.5l0.7-2.5l-2.1-1.6l2.6-0.1zM396.9 79.1l0.9 2.5l2.6 0.1l-2.1 1.6l0.7 2.5l-2.2-1.5l-2.2 1.5l0.7-2.5l-2.1-1.6l2.6-0.1zM381.7 116.2l0.9 2.5l2.6 0.1l-2.1 1.6l0.7 2.5l-2.2-1.5l-2.2 1.5l0.7-2.5l-2.1-1.6l2.6-0.1zM402.4 99.1l0.9 2.5l2.6 0.1l-2.1 1.6l0.7 2.5l-2.2-1.5l-2.2 1.5l0.7-2.5l-2.1-1.6l2.6-0.1zM447.9 107.1l0.9 2.5l2.6 0.1l-2.1 1.6l0.7 2.5l-2.2-1.5l-2.2 1.5l0.7-2.5l-2.1-1.6l2.6-0.1zM426.5 120.2l0.9 2.5l2.6 0.1l-2.1 1.6l0.7 2.5l-2.2-1.5l-2.2 1.5l0.7-2.5l-2.1-1.6l2.6-0.1zM389.3 109.9l0.9 2.5l2.6 0.1l-2.1 1.6l0.7 2.5l-2.2-1.5l-2.2 1.5l0.7-2.5l-2.1-1.6l2.6-0.1zM436.8 87.7l0.9 2.5l2.6 0.1l-2.1 1.6l0.7 2.5l-2.2-1.5l-2.2 1.5l0.7-2.5l-2.1-1.6l2.6-0.1zM422.2 110.8l0.9 2.5l2.6 0.1l-2.1 1.6l0.7 2.5l-2.2-1.5l-2.2 1.5l0.7-2.5l-2.1-1.6l2.6-0.1zM375.9 89.1l0.9 2.5l2.6 0.1l-2.1 1.6l0.7 2.5l-2.2-1.5l-2.2 1.5l0.7-2.5l-2.1-1.6l2.6-0.1zM393.4 72.5l0.9 2.5l2.6 0.1l-2.1 1.6l0.7 2.5l-2.2-1.5l-2.2 1.5l0.7-2.5l-2.1-1.6l2.6-0.1zM365.4 110.4l0.9 2.5l2.6 0.1l-2.1 1.6l0.7 2.5l-2.2-1.5l-2.2 1.5l0.7-2.5l-2.1-1.6l2.6-0.1zM408.2 70.7l0.9 2.5l2.6 0.1l-2.1 1.6l0.7 2.5l-2.2-1.5l-2.2 1.5l0.7-2.5l-2.1-1.6l2.6-0.1zM380.9 75.2l0.9 2.5l2.6 0.1l-2.1 1.6l0.7 2.5l-2.2-1.5l-2.2 1.5l0.7-2.5l-2.1-1.6l2.6-0.1zM369.3 119.4l0.9 2.5l2.6 0.1l-2.1 1.6l0.7 2.5l-2.2-1.5l-2.2 1.5l0.7-2.5l-2.1-1.6l2.6-0.1zM366.9 103.1l0.9 2.5l2.6 0.1l-2.1 1.6l0.7 2.5l-2.2-1.5l-2.2 1.5l0.7-2.5l-2.1-1.6l2.6-0.1zM390 110.4l0.9 2.5l2.6 0.1l-2.1 1.6l0.7 2.5l-2.2-1.5l-2.2 1.5l0.7-2.5l-2.1-1.6l2.6-0.1zM398.1 126.4l0.9 2.5l2.6 0.1l-2.1 1.6l0.7 2.5l-2.2-1.5l-2.2 1.5l0.7-2.5l-2.1-1.6l2.6-0.1zM407.8 118.9l0.9 2.5l2.6 0.1l-2.1 1.6l0.7 2.5l-2.2-1.5l-2.2 1.5l0.7-2.5l-2.1-1.6l2.6-0.1zM437.6 59.8l0.9 2.5l2.6 0.1l-2.1 1.6l0.7 2.5l-2.2-1.5l-2.2 1.5l0.7-2.5l-2.1-1.6l2.6-0.1zM462.9 106l0.9 2.5l2.6 0.1l-2.1 1.6l0.7 2.5l-2.2-1.5l-2.2 1.5l0.7-2.5l-2.1-1.6l2.6-0.1zM376.1 94.8l0.9 2.5l2.6 0.1l-2.1 1.6l0.7 2.5l-2.2-1.5l-2.2 1.5l0.7-2.5l-2.1-1.6l2.6-0.1zM424.3 79.7l0.9 2.5l2.6 0.1l-2.1 1.6l0.7 2.5l-2.2-1.5l-2.2 1.5l0.7-2.5l-2.1-1.6l2.6-0.1zM383.8 99.1l0.9 2.5l2.6 0.1l-2.1 1.6l0.7 2.5l-2.2-1.5l-2.2 1.5l0.7-2.5l-2.1-1.6l2.6-0.1zM417.7 83.1l0.9 2.5l2.6 0.1l-2.1 1.6l0.7 2.5l-2.2-1.5l-2.2 1.5l0.7-2.5l-2.1-1.6l2.6-0.1zM417.9 84.1l0.9 2.5l2.6 0.1l-2.1 1.6l0.7 2.5l-2.2-1.5l-2.2 1.5l0.7-2.5l-2.1-1.6l2.6-0.1zM375.8 93.1l0.9 2.5l2.6 0.1l-2.1 1.6l0.7 2.5l-2.2-1.5l-2.2 1.5l0.7-2.5l-2.1-1.6l2.6-0.1zM366.4 82.9l0.9 2.5l2.6 0.1l-2.1 1.6l0.7 2.5l-2.2-1.5l-2.2 1.5l0.7-2.5l-2.1-1.6l2.6-0.1zM433.6 64l0.9 2.5l2.6 0.1l-2.1 1.6l0.7 2.5l-2.2-1.5l-2.2 1.5l0.7-2.5l-2.1-1.6l2.6-0.1zM430.4 98.6l0.9 2.5l2.6 0.1l-2.1 1.6l0.7 2.5l-2.2-1.5l-2.2 1.5l0.7-2.5l-2.1-1.6l2.6-0.1zM454.1 90l0.9 2.5l2.6 0.1l-2.1 1.6l0.7 2.5l-2.2-1.5l-2.2 1.5l0.7-2.5l-2.1-1.6l2.6-0.1zM404.3 83.8l0.9 2.5l2.6 0.1l-2.1 1.6l0.7 2.5l-2.2-1.5l-2.2 1.5l0.7-2.5l-2.1-1.6l2.6-0.1zM426.6 82.1l0.9 2.5l2.6 0.1l-2.1 1.6l0.7 2.5l-2.2-1.5l-2.2 1.5l0.7-2.5l-2.1-1.6l2.6-0.1zM393.5 91.8l0.9 2.5l2.6 0.1l-2.1 1.6l0.7 2.5l-2.2-1.5l-2.2 1.5l0.7-2.5l-2.1-1.6l2.6-0.1zM394.9 82l0.9 2.5l2.6 0.1l-2.1 1.6l0.7 2.5l-2.2-1.5l-2.2 1.5l0.7-2.5l-2.1-1.6l2.6-0.1zM429 113.3l0.9 2.5l2.6 0.1l-2.1 1.6l0.7 2.5l-2.2-1.5l-2.2 1.5l0.7-2.5l-2.1-1.6l2.6-0.1zM384.5 113.5l0.9 2.5l2.6 0.1l-2.1 1.6l0.7 2.5l-2.2-1.5l-2.2 1.5l0.7-2.5l-2.1-1.6l2.6-0.1zM365.5 113.2l0.9 2.5l2.6 0.1l-2.1 1.6l0.7 2.5l-2.2-1.5l-2.2 1.5l0.7-2.5l-2.1-1.6l2.6-0.1zM427.7 73.1l0.9 2.5l2.6 0.1l-2.1 1.6l0.7 2.5l-2.2-1.5l-2.2 1.5l0.7-2.5l-2.1-1.6l2.6-0.1zM477.2 87.3l0.9 2.5l2.6 0.1l-2.1 1.6l0.7 2.5l-2.2-1.5l-2.2 1.5l0.7-2.5l-2.1-1.6l2.6-0.1zM420.1 88.1l0.9 2.5l2.6 0.1l-2.1 1.6l0.7 2.5l-2.2-1.5l-2.2 1.5l0.7-2.5l-2.1-1.6l2.6-0.1zM399.2 71.8l0.9 2.5l2.6 0.1l-2.1 1.6l0.7 2.5l-2.2-1.5l-2.2 1.5l0.7-2.5l-2.1-1.6l2.6-0.1zM396.7 84.6l0.9 2.5l2.6 0.1l-2.1 1.6l0.7 2.5l-2.2-1.5l-2.2 1.5l0.7-2.5l-2.1-1.6l2.6-0.1zM451.2 85.9l0.9 2.5l2.6 0.1l-2.1 1.6l0.7 2.5l-2.2-1.5l-2.2 1.5l0.7-2.5l-2.1-1.6l2.6-0.1zM370.3 94.5l0.9 2.5l2.6 0.1l-2.1 1.6l0.7 2.5l-2.2-1.5l-2.2 1.5l0.7-2.5l-2.1-1.6l2.6-0.1zM461.7 123.6l0.9 2.5l2.6 0.1l-2.1 1.6l0.7 2.5l-2.2-1.5l-2.2 1.5l0.7-2.5l-2.1-1.6l2.6-0.1zM425.7 77.4l0.9 2.5l2.6 0.1l-2.1 1.6l0.7 2.5l-2.2-1.5l-2.2 1.5l0.7-2.5l-2.1-1.6l2.6-0.1zM411.9 80.6l0.9 2.5l2.6 0.1l-2.1 1.6l0.7 2.5l-2.2-1.5l-2.2 1.5l0.7-2.5l-2.1-1.6l2.6-0.1zM418.5 103.1l0.9 2.5l2.6 0.1l-2.1 1.6l0.7 2.5l-2.2-1.5l-2.2 1.5l0.7-2.5l-2.1-1.6l2.6-0.1zM457.7 77.9l0.9 2.5l2.6 0.1l-2.1 1.6l0.7 2.5l-2.2-1.5l-2.2 1.5l0.7-2.5l-2.1-1.6l2.6-0.1zM362.8 106l0.9 2.5l2.6 0.1l-2.1 1.6l0.7 2.5l-2.2-1.5l-2.2 1.5l0.7-2.5l-2.1-1.6l2.6-0.1zM376.3 100.1l0.9 2.5l2.6 0.1l-2.1 1.6l0.7 2.5l-2.2-1.5l-2.2 1.5l0.7-2.5l-2.1-1.6l2.6-0.1zM428.1 114.9l0.9 2.5l2.6 0.1l-2.1 1.6l0.7 2.5l-2.2-1.5l-2.2 1.5l0.7-2.5l-2.1-1.6l2.6-0.1zM438 86.9l0.9 2.5l2.6 0.1l-2.1 1.6l0.7 2.5l-2.2-1.5l-2.2 1.5l0.7-2.5l-2.1-1.6l2.6-0.1zM371.4 98.2l0.9 2.5l2.6 0.1l-2.1 1.6l0.7 2.5l-2.2-1.5l-2.2 1.5l0.7-2.5l-2.1-1.6l2.6-0.1zM388.2 117.9l0.9 2.5l2.6 0.1l-2.1 1.6l0.7 2.5l-2.2-1.5l-2.2 1.5l0.7-2.5l-2.1-1.6l2.6-0.1zM444.6 90l0.9 2.5l2.6 0.1l-2.1 1.6l0.7 2.5l-2.2-1.5l-2.2 1.5l0.7-2.5l-2.1-1.6l2.6-0.1zM417.1 67.5l0.9 2.5l2.6 0.1l-2.1 1.6l0.7 2.5l-2.2-1.5l-2.2 1.5l0.7-2.5l-2.1-1.6l2.6-0.1zM435.1 79.1l0.9 2.5l2.6 0.1l-2.1 1.6l0.7 2.5l-2.2-1.5l-2.2 1.5l0.7-2.5l-2.1-1.6l2.6-0.1zM381.4 104.2l0.9 2.5l2.6 0.1l-2.1 1.6l0.7 2.5l-2.2-1.5l-2.2 1.5l0.7-2.5l-2.1-1.6l2.6-0.1zM369.5 64.7l0.9 2.5l2.6 0.1l-2.1 1.6l0.7 2.5l-2.2-1.5l-2.2 1.5l0.7-2.5l-2.1-1.6l2.6-0.1zM368.9 73.4l0.9 2.5l2.6 0.1l-2.1 1.6l0.7 2.5l-2.2-1.5l-2.2 1.5l0.7-2.5l-2.1-1.6l2.6-0.1zM409 80.7l0.9 2.5l2.6 0.1l-2.1 1.6l0.7 2.5l-2.2-1.5l-2.2 1.5l0.7-2.5l-2.1-1.6l2.6-0.1zM391.8 56l0.9 2.5l2.6 0.1l-2.1 1.6l0.7 2.5l-2.2-1.5l-2.2 1.5l0.7-2.5l-2.1-1.6l2.6-0.1zM402.8 81.3l0.9 2.5l2.6 0.1l-2.1 1.6l0.7 2.5l-2.2-1.5l-2.2 1.5l0.7-2.5l-2.1-1.6l2.6-0.1zM378 83.7l0.9 2.5l2.6 0.1l-2.1 1.6l0.7 2.5l-2.2-1.5l-2.2 1.5l0.7-2.5l-2.1-1.6l2.6-0.1zM443.8 107.3l0.9 2.5l2.6 0.1l-2.1 1.6l0.7 2.5l-2.2-1.5l-2.2 1.5l0.7-2.5l-2.1-1.6l2.6-0.1zM435.5 66.6l0.9 2.5l2.6 0.1l-2.1 1.6l0.7 2.5l-2.2-1.5l-2.2 1.5l0.7-2.5l-2.1-1.6l2.6-0.1zM373.3 100.1l0.9 2.5l2.6 0.1l-2.1 1.6l0.7 2.5l-2.2-1.5l-2.2 1.5l0.7-2.5l-2.1-1.6l2.6-0.1zM406 80.4l0.9 2.5l2.6 0.1l-2.1 1.6l0.7 2.5l-2.2-1.5l-2.2 1.5l0.7-2.5l-2.1-1.6l2.6-0.1zM398.5 99.5l0.9 2.5l2.6 0.1l-2.1 1.6l0.7 2.5l-2.2-1.5l-2.2 1.5l0.7-2.5l-2.1-1.6l2.6-0.1zM404.6 101.1l0.9 2.5l2.6 0.1l-2.1 1.6l0.7 2.5l-2.2-1.5l-2.2 1.5l0.7-2.5l-2.1-1.6l2.6-0.1zM440.4 127.4l0.9 2.5l2.6 0.1l-2.1 1.6l0.7 2.5l-2.2-1.5l-2.2 1.5l0.7-2.5l-2.1-1.6l2.6-0.1zM453 94.7l0.9 2.5l2.6 0.1l-2.1 1.6l0.7 2.5l-2.2-1.5l-2.2 1.5l0.7-2.5l-2.1-1.6l2.6-0.1zM389.3 61.7l0.9 2.5l2.6 0.1l-2.1 1.6l0.7 2.5l-2.2-1.5l-2.2 1.5l0.7-2.5l-2.1-1.6l2.6-0.1zM381 84.1l0.9 2.5l2.6 0.1l-2.1 1.6l0.7 2.5l-2.2-1.5l-2.2 1.5l0.7-2.5l-2.1-1.6l2.6-0.1zM445.2 115.6l0.9 2.5l2.6 0.1l-2.1 1.6l0.7 2.5l-2.2-1.5l-2.2 1.5l0.7-2.5l-2.1-1.6l2.6-0.1zM450.7 85.3l0.9 2.5l2.6 0.1l-2.1 1.6l0.7 2.5l-2.2-1.5l-2.2 1.5l0.7-2.5l-2.1-1.6l2.6-0.1zM447.4 113l0.9 2.5l2.6 0.1l-2.1 1.6l0.7 2.5l-2.2-1.5l-2.2 1.5l0.7-2.5l-2.1-1.6l2.6-0.1zM404.8 104.5l0.9 2.5l2.6 0.1l-2.1 1.6l0.7 2.5l-2.2-1.5l-2.2 1.5l0.7-2.5l-2.1-1.6l2.6-0.1zM422.2 81.2l0.9 2.5l2.6 0.1l-2.1 1.6l0.7 2.5l-2.2-1.5l-2.2 1.5l0.7-2.5l-2.1-1.6l2.6-0.1zM385.5 113.1l0.9 2.5l2.6 0.1l-2.1 1.6l0.7 2.5l-2.2-1.5l-2.2 1.5l0.7-2.5l-2.1-1.6l2.6-0.1zM371.8 95.2l0.9 2.5l2.6 0.1l-2.1 1.6l0.7 2.5l-2.2-1.5l-2.2 1.5l0.7-2.5l-2.1-1.6l2.6-0.1zM422 93.1l0.9 2.5l2.6 0.1l-2.1 1.6l0.7 2.5l-2.2-1.5l-2.2 1.5l0.7-2.5l-2.1-1.6l2.6-0.1zM396.2 82.1l0.9 2.5l2.6 0.1l-2.1 1.6l0.7 2.5l-2.2-1.5l-2.2 1.5l0.7-2.5l-2.1-1.6l2.6-0.1zM432.1 108.9l0.9 2.5l2.6 0.1l-2.1 1.6l0.7 2.5l-2.2-1.5l-2.2 1.5l0.7-2.5l-2.1-1.6l2.6-0.1zM401.7 103l0.9 2.5l2.6 0.1l-2.1 1.6l0.7 2.5l-2.2-1.5l-2.2 1.5l0.7-2.5l-2.1-1.6l2.6-0.1zM392.5 97l0.9 2.5l2.6 0.1l-2.1 1.6l0.7 2.5l-2.2-1.5l-2.2 1.5l0.7-2.5l-2.1-1.6l2.6-0.1zM398 96.2l0.9 2.5l2.6 0.1l-2.1 1.6l0.7 2.5l-2.2-1.5l-2.2 1.5l0.7-2.5l-2.1-1.6l2.6-0.1zM359 73.5l0.9 2.5l2.6 0.1l-2.1 1.6l0.7 2.5l-2.2-1.5l-2.2 1.5l0.7-2.5l-2.1-1.6l2.6-0.1zM423 79.4l0.9 2.5l2.6 0.1l-2.1 1.6l0.7 2.5l-2.2-1.5l-2.2 1.5l0.7-2.5l-2.1-1.6l2.6-0.1zM444 82l0.9 2.5l2.6 0.1l-2.1 1.6l0.7 2.5l-2.2-1.5l-2.2 1.5l0.7-2.5l-2.1-1.6l2.6-0.1zM379.8 96.2l0.9 2.5l2.6 0.1l-2.1 1.6l0.7 2.5l-2.2-1.5l-2.2 1.5l0.7-2.5l-2.1-1.6l2.6-0.1zM450.5 94.6l0.9 2.5l2.6 0.1l-2.1 1.6l0.7 2.5l-2.2-1.5l-2.2 1.5l0.7-2.5l-2.1-1.6l2.6-0.1zM393.7 90.4l0.9 2.5l2.6 0.1l-2.1 1.6l0.7 2.5l-2.2-1.5l-2.2 1.5l0.7-2.5l-2.1-1.6l2.6-0.1zM441.2 108.5l0.9 2.5l2.6 0.1l-2.1 1.6l0.7 2.5l-2.2-1.5l-2.2 1.5l0.7-2.5l-2.1-1.6l2.6-0.1zM430 76.2l0.9 2.5l2.6 0.1l-2.1 1.6l0.7 2.5l-2.2-1.5l-2.2 1.5l0.7-2.5l-2.1-1.6l2.6-0.1zM392.8 106.5l0.9 2.5l2.6 0.1l-2.1 1.6l0.7 2.5l-2.2-1.5l-2.2 1.5l0.7-2.5l-2.1-1.6l2.6-0.1zM409.8 86.3l0.9 2.5l2.6 0.1l-2.1 1.6l0.7 2.5l-2.2-1.5l-2.2 1.5l0.7-2.5l-2.1-1.6l2.6-0.1zM411.4 89.9l0.9 2.5l2.6 0.1l-2.1 1.6l0.7 2.5l-2.2-1.5l-2.2 1.5l0.7-2.5l-2.1-1.6l2.6-0.1zM451.1 93.1l0.9 2.5l2.6 0.1l-2.1 1.6l0.7 2.5l-2.2-1.5l-2.2 1.5l0.7-2.5l-2.1-1.6l2.6-0.1zM420.6 97.3l0.9 2.5l2.6 0.1l-2.1 1.6l0.7 2.5l-2.2-1.5l-2.2 1.5l0.7-2.5l-2.1-1.6l2.6-0.1zM407.8 74.2l0.9 2.5l2.6 0.1l-2.1 1.6l0.7 2.5l-2.2-1.5l-2.2 1.5l0.7-2.5l-2.1-1.6l2.6-0.1zM434.9 90.5l0.9 2.5l2.6 0.1l-2.1 1.6l0.7 2.5l-2.2-1.5l-2.2 1.5l0.7-2.5l-2.1-1.6l2.6-0.1zM389.1 95.3l0.9 2.5l2.6 0.1l-2.1 1.6l0.7 2.5l-2.2-1.5l-2.2 1.5l0.7-2.5l-2.1-1.6l2.6-0.1zM395.9 123.4l0.9 2.5l2.6 0.1l-2.1 1.6l0.7 2.5l-2.2-1.5l-2.2 1.5l0.7-2.5l-2.1-1.6l2.6-0.1zM430.5 87.5l0.9 2.5l2.6 0.1l-2.1 1.6l0.7 2.5l-2.2-1.5l-2.2 1.5l0.7-2.5l-2.1-1.6l2.6-0.1zM442.6 91.7l0.9 2.5l2.6 0.1l-2.1 1.6l0.7 2.5l-2.2-1.5l-2.2 1.5l0.7-2.5l-2.1-1.6l2.6-0.1zM442.2 106.4l0.9 2.5l2.6 0.1l-2.1 1.6l0.7 2.5l-2.2-1.5l-2.2 1.5l0.7-2.5l-2.1-1.6l2.6-0.1zM449.7 76.5l0.9 2.5l2.6 0.1l-2.1 1.6l0.7 2.5l-2.2-1.5l-2.2 1.5l0.7-2.5l-2.1-1.6l2.6-0.1zM438.8 93.4l0.9 2.5l2.6 0.1l-2.1 1.6l0.7 2.5l-2.2-1.5l-2.2 1.5l0.7-2.5l-2.1-1.6l2.6-0.1zM437.4 118.2l0.9 2.5l2.6 0.1l-2.1 1.6l0.7 2.5l-2.2-1.5l-2.2 1.5l0.7-2.5l-2.1-1.6l2.6-0.1zM358.1 94l0.9 2.5l2.6 0.1l-2.1 1.6l0.7 2.5l-2.2-1.5l-2.2 1.5l0.7-2.5l-2.1-1.6l2.6-0.1zM414.1 111.5l0.9 2.5l2.6 0.1l-2.1 1.6l0.7 2.5l-2.2-1.5l-2.2 1.5l0.7-2.5l-2.1-1.6l2.6-0.1zM424.6 83.5l0.9 2.5l2.6 0.1l-2.1 1.6l0.7 2.5l-2.2-1.5l-2.2 1.5l0.7-2.5l-2.1-1.6l2.6-0.1zM399.6 110l0.9 2.5l2.6 0.1l-2.1 1.6l0.7 2.5l-2.2-1.5l-2.2 1.5l0.7-2.5l-2.1-1.6l2.6-0.1zM465.1 85.5l0.9 2.5l2.6 0.1l-2.1 1.6l0.7 2.5l-2.2-1.5l-2.2 1.5l0.7-2.5l-2.1-1.6l2.6-0.1zM385.6 66.2l0.9 2.5l2.6 0.1l-2.1 1.6l0.7 2.5l-2.2-1.5l-2.2 1.5l0.7-2.5l-2.1-1.6l2.6-0.1zM393.4 78.4l0.9 2.5l2.6 0.1l-2.1 1.6l0.7 2.5l-2.2-1.5l-2.2 1.5l0.7-2.5l-2.1-1.6l2.6-0.1zM354.9 81.4l0.9 2.5l2.6 0.1l-2.1 1.6l0.7 2.5l-2.2-1.5l-2.2 1.5l0.7-2.5l-2.1-1.6l2.6-0.1zM390.4 67.9l0.9 2.5l2.6 0.1l-2.1 1.6l0.7 2.5l-2.2-1.5l-2.2 1.5l0.7-2.5l-2.1-1.6l2.6-0.1zM382.9 80.3l0.9 2.5l2.6 0.1l-2.1 1.6l0.7 2.5l-2.2-1.5l-2.2 1.5l0.7-2.5l-2.1-1.6l2.6-0.1zM422.5 96.8l0.9 2.5l2.6 0.1l-2.1 1.6l0.7 2.5l-2.2-1.5l-2.2 1.5l0.7-2.5l-2.1-1.6l2.6-0.1zM450.6 127.5l0.9 2.5l2.6 0.1l-2.1 1.6l0.7 2.5l-2.2-1.5l-2.2 1.5l0.7-2.5l-2.1-1.6l2.6-0.1zM381.2 63.2l0.9 2.5l2.6 0.1l-2.1 1.6l0.7 2.5l-2.2-1.5l-2.2 1.5l0.7-2.5l-2.1-1.6l2.6-0.1zM442.3 112.5l0.9 2.5l2.6 0.1l-2.1 1.6l0.7 2.5l-2.2-1.5l-2.2 1.5l0.7-2.5l-2.1-1.6l2.6-0.1zM374.3 77.2l0.9 2.5l2.6 0.1l-2.1 1.6l0.7 2.5l-2.2-1.5l-2.2 1.5l0.7-2.5l-2.1-1.6l2.6-0.1zM379.8 97.3l0.9 2.5l2.6 0.1l-2.1 1.6l0.7 2.5l-2.2-1.5l-2.2 1.5l0.7-2.5l-2.1-1.6l2.6-0.1zM387.7 90.3l0.9 2.5l2.6 0.1l-2.1 1.6l0.7 2.5l-2.2-1.5l-2.2 1.5l0.7-2.5l-2.1-1.6l2.6-0.1zM446.7 96.9l0.9 2.5l2.6 0.1l-2.1 1.6l0.7 2.5l-2.2-1.5l-2.2 1.5l0.7-2.5l-2.1-1.6l2.6-0.1zM416.2 81.8l0.9 2.5l2.6 0.1l-2.1 1.6l0.7 2.5l-2.2-1.5l-2.2 1.5l0.7-2.5l-2.1-1.6l2.6-0.1zM442.7 106.2l0.9 2.5l2.6 0.1l-2.1 1.6l0.7 2.5l-2.2-1.5l-2.2 1.5l0.7-2.5l-2.1-1.6l2.6-0.1zM393.3 86.4l0.9 2.5l2.6 0.1l-2.1 1.6l0.7 2.5l-2.2-1.5l-2.2 1.5l0.7-2.5l-2.1-1.6l2.6-0.1zM399.4 77.7l0.9 2.5l2.6 0.1l-2.1 1.6l0.7 2.5l-2.2-1.5l-2.2 1.5l0.7-2.5l-2.1-1.6l2.6-0.1zM445.6 80.2l0.9 2.5l2.6 0.1l-2.1 1.6l0.7 2.5l-2.2-1.5l-2.2 1.5l0.7-2.5l-2.1-1.6l2.6-0.1zM422.2 95.2l0.9 2.5l2.6 0.1l-2.1 1.6l0.7 2.5l-2.2-1.5l-2.2 1.5l0.7-2.5l-2.1-1.6l2.6-0.1zM382.5 118.5l0.9 2.5l2.6 0.1l-2.1 1.6l0.7 2.5l-2.2-1.5l-2.2 1.5l0.7-2.5l-2.1-1.6l2.6-0.1zM411.7 87l0.9 2.5l2.6 0.1l-2.1 1.6l0.7 2.5l-2.2-1.5l-2.2 1.5l0.7-2.5l-2.1-1.6l2.6-0.1zM374.5 104.6l0.9 2.5l2.6 0.1l-2.1 1.6l0.7 2.5l-2.2-1.5l-2.2 1.5l0.7-2.5l-2.1-1.6l2.6-0.1zM373.1 91l0.9 2.5l2.6 0.1l-2.1 1.6l0.7 2.5l-2.2-1.5l-2.2 1.5l0.7-2.5l-2.1-1.6l2.6-0.1zM368.3 85l0.9 2.5l2.6 0.1l-2.1 1.6l0.7 2.5l-2.2-1.5l-2.2 1.5l0.7-2.5l-2.1-1.6l2.6-0.1zM393.2 64.5l0.9 2.5l2.6 0.1l-2.1 1.6l0.7 2.5l-2.2-1.5l-2.2 1.5l0.7-2.5l-2.1-1.6l2.6-0.1zM409 79l0.9 2.5l2.6 0.1l-2.1 1.6l0.7 2.5l-2.2-1.5l-2.2 1.5l0.7-2.5l-2.1-1.6l2.6-0.1zM426.7 96.6l0.9 2.5l2.6 0.1l-2.1 1.6l0.7 2.5l-2.2-1.5l-2.2 1.5l0.7-2.5l-2.1-1.6l2.6-0.1zM374.4 78.8l0.9 2.5l2.6 0.1l-2.1 1.6l0.7 2.5l-2.2-1.5l-2.2 1.5l0.7-2.5l-2.1-1.6l2.6-0.1zM378.4 89.6l0.9 2.5l2.6 0.1l-2.1 1.6l0.7 2.5l-2.2-1.5l-2.2 1.5l0.7-2.5l-2.1-1.6l2.6-0.1zM376.7 71.9l0.9 2.5l2.6 0.1l-2.1 1.6l0.7 2.5l-2.2-1.5l-2.2 1.5l0.7-2.5l-2.1-1.6l2.6-0.1zM384.6 78.3l0.9 2.5l2.6 0.1l-2.1 1.6l0.7 2.5l-2.2-1.5l-2.2 1.5l0.7-2.5l-2.1-1.6l2.6-0.1zM458.9 106.9l0.9 2.5l2.6 0.1l-2.1 1.6l0.7 2.5l-2.2-1.5l-2.2 1.5l0.7-2.5l-2.1-1.6l2.6-0.1zM442.9 94.2l0.9 2.5l2.6 0.1l-2.1 1.6l0.7 2.5l-2.2-1.5l-2.2 1.5l0.7-2.5l-2.1-1.6l2.6-0.1zM390.2 80l0.9 2.5l2.6 0.1l-2.1 1.6l0.7 2.5l-2.2-1.5l-2.2 1.5l0.7-2.5l-2.1-1.6l2.6-0.1zM465.3 82.3l0.9 2.5l2.6 0.1l-2.1 1.6l0.7 2.5l-2.2-1.5l-2.2 1.5l0.7-2.5l-2.1-1.6l2.6-0.1zM387.2 70l0.9 2.5l2.6 0.1l-2.1 1.6l0.7 2.5l-2.2-1.5l-2.2 1.5l0.7-2.5l-2.1-1.6l2.6-0.1zM442.5 122.2l0.9 2.5l2.6 0.1l-2.1 1.6l0.7 2.5l-2.2-1.5l-2.2 1.5l0.7-2.5l-2.1-1.6l2.6-0.1zM406.6 96l0.9 2.5l2.6 0.1l-2.1 1.6l0.7 2.5l-2.2-1.5l-2.2 1.5l0.7-2.5l-2.1-1.6l2.6-0.1zM383.3 107.8l0.9 2.5l2.6 0.1l-2.1 1.6l0.7 2.5l-2.2-1.5l-2.2 1.5l0.7-2.5l-2.1-1.6l2.6-0.1zM389.5 76.9l0.9 2.5l2.6 0.1l-2.1 1.6l0.7 2.5l-2.2-1.5l-2.2 1.5l0.7-2.5l-2.1-1.6l2.6-0.1zM381.7 110.6l0.9 2.5l2.6 0.1l-2.1 1.6l0.7 2.5l-2.2-1.5l-2.2 1.5l0.7-2.5l-2.1-1.6l2.6-0.1zM372.7 99.3l0.9 2.5l2.6 0.1l-2.1 1.6l0.7 2.5l-2.2-1.5l-2.2 1.5l0.7-2.5l-2.1-1.6l2.6-0.1zM383.4 91.1l0.9 2.5l2.6 0.1l-2.1 1.6l0.7 2.5l-2.2-1.5l-2.2 1.5l0.7-2.5l-2.1-1.6l2.6-0.1zM445.6 81.2l0.9 2.5l2.6 0.1l-2.1 1.6l0.7 2.5l-2.2-1.5l-2.2 1.5l0.7-2.5l-2.1-1.6l2.6-0.1zM417.7 126.3l0.9 2.5l2.6 0.1l-2.1 1.6l0.7 2.5l-2.2-1.5l-2.2 1.5l0.7-2.5l-2.1-1.6l2.6-0.1zM396.5 73.6l0.9 2.5l2.6 0.1l-2.1 1.6l0.7 2.5l-2.2-1.5l-2.2 1.5l0.7-2.5l-2.1-1.6l2.6-0.1zM424 94.1l0.9 2.5l2.6 0.1l-2.1 1.6l0.7 2.5l-2.2-1.5l-2.2 1.5l0.7-2.5l-2.1-1.6l2.6-0.1zM374.7 80.9l0.9 2.5l2.6 0.1l-2.1 1.6l0.7 2.5l-2.2-1.5l-2.2 1.5l0.7-2.5l-2.1-1.6l2.6-0.1zM439.2 96.9l0.9 2.5l2.6 0.1l-2.1 1.6l0.7 2.5l-2.2-1.5l-2.2 1.5l0.7-2.5l-2.1-1.6l2.6-0.1zM396.8 112.6l0.9 2.5l2.6 0.1l-2.1 1.6l0.7 2.5l-2.2-1.5l-2.2 1.5l0.7-2.5l-2.1-1.6l2.6-0.1zM448.1 86.2l0.9 2.5l2.6 0.1l-2.1 1.6l0.7 2.5l-2.2-1.5l-2.2 1.5l0.7-2.5l-2.1-1.6l2.6-0.1zM366.8 63.8l0.9 2.5l2.6 0.1l-2.1 1.6l0.7 2.5l-2.2-1.5l-2.2 1.5l0.7-2.5l-2.1-1.6l2.6-0.1zM419.9 104.9l0.9 2.5l2.6 0.1l-2.1 1.6l0.7 2.5l-2.2-1.5l-2.2 1.5l0.7-2.5l-2.1-1.6l2.6-0.1zM423 83.7l0.9 2.5l2.6 0.1l-2.1 1.6l0.7 2.5l-2.2-1.5l-2.2 1.5l0.7-2.5l-2.1-1.6l2.6-0.1zM385.4 88.1l0.9 2.5l2.6 0.1l-2.1 1.6l0.7 2.5l-2.2-1.5l-2.2 1.5l0.7-2.5l-2.1-1.6l2.6-0.1zM401.7 100.2l0.9 2.5l2.6 0.1l-2.1 1.6l0.7 2.5l-2.2-1.5l-2.2 1.5l0.7-2.5l-2.1-1.6l2.6-0.1zM430.1 114l0.9 2.5l2.6 0.1l-2.1 1.6l0.7 2.5l-2.2-1.5l-2.2 1.5l0.7-2.5l-2.1-1.6l2.6-0.1zM407 94.8l0.9 2.5l2.6 0.1l-2.1 1.6l0.7 2.5l-2.2-1.5l-2.2 1.5l0.7-2.5l-2.1-1.6l2.6-0.1zM386.8 76.8l0.9 2.5l2.6 0.1l-2.1 1.6l0.7 2.5l-2.2-1.5l-2.2 1.5l0.7-2.5l-2.1-1.6l2.6-0.1zM415.6 92.7l0.9 2.5l2.6 0.1l-2.1 1.6l0.7 2.5l-2.2-1.5l-2.2 1.5l0.7-2.5l-2.1-1.6l2.6-0.1zM448.1 90.3l0.9 2.5l2.6 0.1l-2.1 1.6l0.7 2.5l-2.2-1.5l-2.2 1.5l0.7-2.5l-2.1-1.6l2.6-0.1zM419.5 98.6l0.9 2.5l2.6 0.1l-2.1 1.6l0.7 2.5l-2.2-1.5l-2.2 1.5l0.7-2.5l-2.1-1.6l2.6-0.1zM385 92.7l0.9 2.5l2.6 0.1l-2.1 1.6l0.7 2.5l-2.2-1.5l-2.2 1.5l0.7-2.5l-2.1-1.6l2.6-0.1zM378.2 94.3l0.9 2.5l2.6 0.1l-2.1 1.6l0.7 2.5l-2.2-1.5l-2.2 1.5l0.7-2.5l-2.1-1.6l2.6-0.1zM367.2 112.5l0.9 2.5l2.6 0.1l-2.1 1.6l0.7 2.5l-2.2-1.5l-2.2 1.5l0.7-2.5l-2.1-1.6l2.6-0.1zM375.1 63.2l0.9 2.5l2.6 0.1l-2.1 1.6l0.7 2.5l-2.2-1.5l-2.2 1.5l0.7-2.5l-2.1-1.6l2.6-0.1zM423.8 103.5l0.9 2.5l2.6 0.1l-2.1 1.6l0.7 2.5l-2.2-1.5l-2.2 1.5l0.7-2.5l-2.1-1.6l2.6-0.1zM379.8 72.5l0.9 2.5l2.6 0.1l-2.1 1.6l0.7 2.5l-2.2-1.5l-2.2 1.5l0.7-2.5l-2.1-1.6l2.6-0.1zM410.7 61.3l0.9 2.5l2.6 0.1l-2.1 1.6l0.7 2.5l-2.2-1.5l-2.2 1.5l0.7-2.5l-2.1-1.6l2.6-0.1zM363.9 91.4l0.9 2.5l2.6 0.1l-2.1 1.6l0.7 2.5l-2.2-1.5l-2.2 1.5l0.7-2.5l-2.1-1.6l2.6-0.1zM373.5 91.6l0.9 2.5l2.6 0.1l-2.1 1.6l0.7 2.5l-2.2-1.5l-2.2 1.5l0.7-2.5l-2.1-1.6l2.6-0.1zM382 112.4l0.9 2.5l2.6 0.1l-2.1 1.6l0.7 2.5l-2.2-1.5l-2.2 1.5l0.7-2.5l-2.1-1.6l2.6-0.1zM442.1 79.8l0.9 2.5l2.6 0.1l-2.1 1.6l0.7 2.5l-2.2-1.5l-2.2 1.5l0.7-2.5l-2.1-1.6l2.6-0.1zM396.4 99.7l0.9 2.5l2.6 0.1l-2.1 1.6l0.7 2.5l-2.2-1.5l-2.2 1.5l0.7-2.5l-2.1-1.6l2.6-0.1zM457 105.2l0.9 2.5l2.6 0.1l-2.1 1.6l0.7 2.5l-2.2-1.5l-2.2 1.5l0.7-2.5l-2.1-1.6l2.6-0.1zM396.2 70.4l0.9 2.5l2.6 0.1l-2.1 1.6l0.7 2.5l-2.2-1.5l-2.2 1.5l0.7-2.5l-2.1-1.6l2.6-0.1zM443.2 66l0.9 2.5l2.6 0.1l-2.1 1.6l0.7 2.5l-2.2-1.5l-2.2 1.5l0.7-2.5l-2.1-1.6l2.6-0.1zM385.7 87.4l0.9 2.5l2.6 0.1l-2.1 1.6l0.7 2.5l-2.2-1.5l-2.2 1.5l0.7-2.5l-2.1-1.6l2.6-0.1zM440.8 93.5l0.9 2.5l2.6 0.1l-2.1 1.6l0.7 2.5l-2.2-1.5l-2.2 1.5l0.7-2.5l-2.1-1.6l2.6-0.1zM469.8 111.3l0.9 2.5l2.6 0.1l-2.1 1.6l0.7 2.5l-2.2-1.5l-2.2 1.5l0.7-2.5l-2.1-1.6l2.6-0.1zM380.1 110.2l0.9 2.5l2.6 0.1l-2.1 1.6l0.7 2.5l-2.2-1.5l-2.2 1.5l0.7-2.5l-2.1-1.6l2.6-0.1zM397.1 113.3l0.9 2.5l2.6 0.1l-2.1 1.6l0.7 2.5l-2.2-1.5l-2.2 1.5l0.7-2.5l-2.1-1.6l2.6-0.1zM375.1 103.9l0.9 2.5l2.6 0.1l-2.1 1.6l0.7 2.5l-2.2-1.5l-2.2 1.5l0.7-2.5l-2.1-1.6l2.6-0.1zM373.7 73.9l0.9 2.5l2.6 0.1l-2.1 1.6l0.7 2.5l-2.2-1.5l-2.2 1.5l0.7-2.5l-2.1-1.6l2.6-0.1zM410.7 96l0.9 2.5l2.6 0.1l-2.1 1.6l0.7 2.5l-2.2-1.5l-2.2 1.5l0.7-2.5l-2.1-1.6l2.6-0.1zM378.1 82.2l0.9 2.5l2.6 0.1l-2.1 1.6l0.7 2.5l-2.2-1.5l-2.2 1.5l0.7-2.5l-2.1-1.6l2.6-0.1zM386.3 87.7l0.9 2.5l2.6 0.1l-2.1 1.6l0.7 2.5l-2.2-1.5l-2.2 1.5l0.7-2.5l-2.1-1.6l2.6-0.1zM392.9 121.1l0.9 2.5l2.6 0.1l-2.1 1.6l0.7 2.5l-2.2-1.5l-2.2 1.5l0.7-2.5l-2.1-1.6l2.6-0.1zM420 99.6l0.9 2.5l2.6 0.1l-2.1 1.6l0.7 2.5l-2.2-1.5l-2.2 1.5l0.7-2.5l-2.1-1.6l2.6-0.1zM373.4 84.1l0.9 2.5l2.6 0.1l-2.1 1.6l0.7 2.5l-2.2-1.5l-2.2 1.5l0.7-2.5l-2.1-1.6l2.6-0.1zM437.8 99.5l0.9 2.5l2.6 0.1l-2.1 1.6l0.7 2.5l-2.2-1.5l-2.2 1.5l0.7-2.5l-2.1-1.6l2.6-0.1zM384.8 93.4l0.9 2.5l2.6 0.1l-2.1 1.6l0.7 2.5l-2.2-1.5l-2.2 1.5l0.7-2.5l-2.1-1.6l2.6-0.1zM427.3 68.9l0.9 2.5l2.6 0.1l-2.1 1.6l0.7 2.5l-2.2-1.5l-2.2 1.5l0.7-2.5l-2.1-1.6l2.6-0.1zM398 91.6l0.9 2.5l2.6 0.1l-2.1 1.6l0.7 2.5l-2.2-1.5l-2.2 1.5l0.7-2.5l-2.1-1.6l2.6-0.1zM425.2 118.5l0.9 2.5l2.6 0.1l-2.1 1.6l0.7 2.5l-2.2-1.5l-2.2 1.5l0.7-2.5l-2.1-1.6l2.6-0.1zM409 108.2l0.9 2.5l2.6 0.1l-2.1 1.6l0.7 2.5l-2.2-1.5l-2.2 1.5l0.7-2.5l-2.1-1.6l2.6-0.1zM360.5 87.2l0.9 2.5l2.6 0.1l-2.1 1.6l0.7 2.5l-2.2-1.5l-2.2 1.5l0.7-2.5l-2.1-1.6l2.6-0.1zM388 86l0.9 2.5l2.6 0.1l-2.1 1.6l0.7 2.5l-2.2-1.5l-2.2 1.5l0.7-2.5l-2.1-1.6l2.6-0.1zM435 76.4l0.9 2.5l2.6 0.1l-2.1 1.6l0.7 2.5l-2.2-1.5l-2.2 1.5l0.7-2.5l-2.1-1.6l2.6-0.1zM427.6 76.5l0.9 2.5l2.6 0.1l-2.1 1.6l0.7 2.5l-2.2-1.5l-2.2 1.5l0.7-2.5l-2.1-1.6l2.6-0.1zM458.6 98.8l0.9 2.5l2.6 0.1l-2.1 1.6l0.7 2.5l-2.2-1.5l-2.2 1.5l0.7-2.5l-2.1-1.6l2.6-0.1zM362.3 87.7l0.9 2.5l2.6 0.1l-2.1 1.6l0.7 2.5l-2.2-1.5l-2.2 1.5l0.7-2.5l-2.1-1.6l2.6-0.1zM450.7 90.4l0.9 2.5l2.6 0.1l-2.1 1.6l0.7 2.5l-2.2-1.5l-2.2 1.5l0.7-2.5l-2.1-1.6l2.6-0.1zM411.5 109.9l0.9 2.5l2.6 0.1l-2.1 1.6l0.7 2.5l-2.2-1.5l-2.2 1.5l0.7-2.5l-2.1-1.6l2.6-0.1zM443.1 73.6l0.9 2.5l2.6 0.1l-2.1 1.6l0.7 2.5l-2.2-1.5l-2.2 1.5l0.7-2.5l-2.1-1.6l2.6-0.1zM388.6 63.6l0.9 2.5l2.6 0.1l-2.1 1.6l0.7 2.5l-2.2-1.5l-2.2 1.5l0.7-2.5l-2.1-1.6l2.6-0.1zM370.8 68.9l0.9 2.5l2.6 0.1l-2.1 1.6l0.7 2.5l-2.2-1.5l-2.2 1.5l0.7-2.5l-2.1-1.6l2.6-0.1zM392.6 80.2l0.9 2.5l2.6 0.1l-2.1 1.6l0.7 2.5l-2.2-1.5l-2.2 1.5l0.7-2.5l-2.1-1.6l2.6-0.1zM450.4 98.7l0.9 2.5l2.6 0.1l-2.1 1.6l0.7 2.5l-2.2-1.5l-2.2 1.5l0.7-2.5l-2.1-1.6l2.6-0.1zM438.2 109.7l0.9 2.5l2.6 0.1l-2.1 1.6l0.7 2.5l-2.2-1.5l-2.2 1.5l0.7-2.5l-2.1-1.6l2.6-0.1zM385.7 69.1l0.9 2.5l2.6 0.1l-2.1 1.6l0.7 2.5l-2.2-1.5l-2.2 1.5l0.7-2.5l-2.1-1.6l2.6-0.1zM367.2 100.7l0.9 2.5l2.6 0.1l-2.1 1.6l0.7 2.5l-2.2-1.5l-2.2 1.5l0.7-2.5l-2.1-1.6l2.6-0.1zM447.5 80.5l0.9 2.5l2.6 0.1l-2.1 1.6l0.7 2.5l-2.2-1.5l-2.2 1.5l0.7-2.5l-2.1-1.6l2.6-0.1zM451.2 121.6l0.9 2.5l2.6 0.1l-2.1 1.6l0.7 2.5l-2.2-1.5l-2.2 1.5l0.7-2.5l-2.1-1.6l2.6-0.1zM391.7 113.7l0.9 2.5l2.6 0.1l-2.1 1.6l0.7 2.5l-2.2-1.5l-2.2 1.5l0.7-2.5l-2.1-1.6l2.6-0.1zM387.1 105.2l0.9 2.5l2.6 0.1l-2.1 1.6l0.7 2.5l-2.2-1.5l-2.2 1.5l0.7-2.5l-2.1-1.6l2.6-0.1zM346.1 82.4l0.9 2.5l2.6 0.1l-2.1 1.6l0.7 2.5l-2.2-1.5l-2.2 1.5l0.7-2.5l-2.1-1.6l2.6-0.1zM446.8 124.8l0.9 2.5l2.6 0.1l-2.1 1.6l0.7 2.5l-2.2-1.5l-2.2 1.5l0.7-2.5l-2.1-1.6l2.6-0.1zM379.5 81.5l0.9 2.5l2.6 0.1l-2.1 1.6l0.7 2.5l-2.2-1.5l-2.2 1.5l0.7-2.5l-2.1-1.6l2.6-0.1zM436.2 98.3l0.9 2.5l2.6 0.1l-2.1 1.6l0.7 2.5l-2.2-1.5l-2.2 1.5l0.7-2.5l-2.1-1.6l2.6-0.1zM392 110.9l0.9 2.5l2.6 0.1l-2.1 1.6l0.7 2.5l-2.2-1.5l-2.2 1.5l0.7-2.5l-2.1-1.6l2.6-0.1zM436.9 106.1l0.9 2.5l2.6 0.1l-2.1 1.6l0.7 2.5l-2.2-1.5l-2.2 1.5l0.7-2.5l-2.1-1.6l2.6-0.1zM430 96.8l0.9 2.5l2.6 0.1l-2.1 1.6l0.7 2.5l-2.2-1.5l-2.2 1.5l0.7-2.5l-2.1-1.6l2.6-0.1zM396.6 69l0.9 2.5l2.6 0.1l-2.1 1.6l0.7 2.5l-2.2-1.5l-2.2 1.5l0.7-2.5l-2.1-1.6l2.6-0.1zM402.2 94l0.9 2.5l2.6 0.1l-2.1 1.6l0.7 2.5l-2.2-1.5l-2.2 1.5l0.7-2.5l-2.1-1.6l2.6-0.1zM425.1 84.2l0.9 2.5l2.6 0.1l-2.1 1.6l0.7 2.5l-2.2-1.5l-2.2 1.5l0.7-2.5l-2.1-1.6l2.6-0.1zM400 77l0.9 2.5l2.6 0.1l-2.1 1.6l0.7 2.5l-2.2-1.5l-2.2 1.5l0.7-2.5l-2.1-1.6l2.6-0.1zM437 113.2l0.9 2.5l2.6 0.1l-2.1 1.6l0.7 2.5l-2.2-1.5l-2.2 1.5l0.7-2.5l-2.1-1.6l2.6-0.1zM365.5 78.4l0.9 2.5l2.6 0.1l-2.1 1.6l0.7 2.5l-2.2-1.5l-2.2 1.5l0.7-2.5l-2.1-1.6l2.6-0.1zM426.7 106.4l0.9 2.5l2.6 0.1l-2.1 1.6l0.7 2.5l-2.2-1.5l-2.2 1.5l0.7-2.5l-2.1-1.6l2.6-0.1zM422.5 79.8l0.9 2.5l2.6 0.1l-2.1 1.6l0.7 2.5l-2.2-1.5l-2.2 1.5l0.7-2.5l-2.1-1.6l2.6-0.1zM436.3 95.3l0.9 2.5l2.6 0.1l-2.1 1.6l0.7 2.5l-2.2-1.5l-2.2 1.5l0.7-2.5l-2.1-1.6l2.6-0.1zM377.8 101l0.9 2.5l2.6 0.1l-2.1 1.6l0.7 2.5l-2.2-1.5l-2.2 1.5l0.7-2.5l-2.1-1.6l2.6-0.1zM420.5 69l0.9 2.5l2.6 0.1l-2.1 1.6l0.7 2.5l-2.2-1.5l-2.2 1.5l0.7-2.5l-2.1-1.6l2.6-0.1zM371.4 102.2l0.9 2.5l2.6 0.1l-2.1 1.6l0.7 2.5l-2.2-1.5l-2.2 1.5l0.7-2.5l-2.1-1.6l2.6-0.1zM415.5 108.1l0.9 2.5l2.6 0.1l-2.1 1.6l0.7 2.5l-2.2-1.5l-2.2 1.5l0.7-2.5l-2.1-1.6l2.6-0.1zM381.1 101.5l0.9 2.5l2.6 0.1l-2.1 1.6l0.7 2.5l-2.2-1.5l-2.2 1.5l0.7-2.5l-2.1-1.6l2.6-0.1zM403.3 121.1l0.9 2.5l2.6 0.1l-2.1 1.6l0.7 2.5l-2.2-1.5l-2.2 1.5l0.7-2.5l-2.1-1.6l2.6-0.1zM411.4 107.7l0.9 2.5l2.6 0.1l-2.1 1.6l0.7 2.5l-2.2-1.5l-2.2 1.5l0.7-2.5l-2.1-1.6l2.6-0.1zM479.4 106.3l0.9 2.5l2.6 0.1l-2.1 1.6l0.7 2.5l-2.2-1.5l-2.2 1.5l0.7-2.5l-2.1-1.6l2.6-0.1zM378.3 73.1l0.9 2.5l2.6 0.1l-2.1 1.6l0.7 2.5l-2.2-1.5l-2.2 1.5l0.7-2.5l-2.1-1.6l2.6-0.1zM467.7 102l0.9 2.5l2.6 0.1l-2.1 1.6l0.7 2.5l-2.2-1.5l-2.2 1.5l0.7-2.5l-2.1-1.6l2.6-0.1zM380.9 99.2l0.9 2.5l2.6 0.1l-2.1 1.6l0.7 2.5l-2.2-1.5l-2.2 1.5l0.7-2.5l-2.1-1.6l2.6-0.1zM401.9 83.9l0.9 2.5l2.6 0.1l-2.1 1.6l0.7 2.5l-2.2-1.5l-2.2 1.5l0.7-2.5l-2.1-1.6l2.6-0.1zM423.8 91.8l0.9 2.5l2.6 0.1l-2.1 1.6l0.7 2.5l-2.2-1.5l-2.2 1.5l0.7-2.5l-2.1-1.6l2.6-0.1zM376.7 106.7l0.9 2.5l2.6 0.1l-2.1 1.6l0.7 2.5l-2.2-1.5l-2.2 1.5l0.7-2.5l-2.1-1.6l2.6-0.1zM416.3 127.8l0.9 2.5l2.6 0.1l-2.1 1.6l0.7 2.5l-2.2-1.5l-2.2 1.5l0.7-2.5l-2.1-1.6l2.6-0.1zM392 78l0.9 2.5l2.6 0.1l-2.1 1.6l0.7 2.5l-2.2-1.5l-2.2 1.5l0.7-2.5l-2.1-1.6l2.6-0.1zM369.7 85.4l0.9 2.5l2.6 0.1l-2.1 1.6l0.7 2.5l-2.2-1.5l-2.2 1.5l0.7-2.5l-2.1-1.6l2.6-0.1zM391.6 71.2l0.9 2.5l2.6 0.1l-2.1 1.6l0.7 2.5l-2.2-1.5l-2.2 1.5l0.7-2.5l-2.1-1.6l2.6-0.1zM411.5 78.1l0.9 2.5l2.6 0.1l-2.1 1.6l0.7 2.5l-2.2-1.5l-2.2 1.5l0.7-2.5l-2.1-1.6l2.6-0.1zM398.2 98.6l0.9 2.5l2.6 0.1l-2.1 1.6l0.7 2.5l-2.2-1.5l-2.2 1.5l0.7-2.5l-2.1-1.6l2.6-0.1zM400 101.5l0.9 2.5l2.6 0.1l-2.1 1.6l0.7 2.5l-2.2-1.5l-2.2 1.5l0.7-2.5l-2.1-1.6l2.6-0.1zM385.6 72.8l0.9 2.5l2.6 0.1l-2.1 1.6l0.7 2.5l-2.2-1.5l-2.2 1.5l0.7-2.5l-2.1-1.6l2.6-0.1zM446.4 90l0.9 2.5l2.6 0.1l-2.1 1.6l0.7 2.5l-2.2-1.5l-2.2 1.5l0.7-2.5l-2.1-1.6l2.6-0.1zM399.5 82.9l0.9 2.5l2.6 0.1l-2.1 1.6l0.7 2.5l-2.2-1.5l-2.2 1.5l0.7-2.5l-2.1-1.6l2.6-0.1zM424.5 121.7l0.9 2.5l2.6 0.1l-2.1 1.6l0.7 2.5l-2.2-1.5l-2.2 1.5l0.7-2.5l-2.1-1.6l2.6-0.1zM375.1 80.9l0.9 2.5l2.6 0.1l-2.1 1.6l0.7 2.5l-2.2-1.5l-2.2 1.5l0.7-2.5l-2.1-1.6l2.6-0.1zM376.5 93.2l0.9 2.5l2.6 0.1l-2.1 1.6l0.7 2.5l-2.2-1.5l-2.2 1.5l0.7-2.5l-2.1-1.6l2.6-0.1zM401.8 116.3l0.9 2.5l2.6 0.1l-2.1 1.6l0.7 2.5l-2.2-1.5l-2.2 1.5l0.7-2.5l-2.1-1.6l2.6-0.1zM403.6 122.8l0.9 2.5l2.6 0.1l-2.1 1.6l0.7 2.5l-2.2-1.5l-2.2 1.5l0.7-2.5l-2.1-1.6l2.6-0.1zM363.5 79.5l0.9 2.5l2.6 0.1l-2.1 1.6l0.7 2.5l-2.2-1.5l-2.2 1.5l0.7-2.5l-2.1-1.6l2.6-0.1zM405.5 84.5l0.9 2.5l2.6 0.1l-2.1 1.6l0.7 2.5l-2.2-1.5l-2.2 1.5l0.7-2.5l-2.1-1.6l2.6-0.1zM382.2 62.5l0.9 2.5l2.6 0.1l-2.1 1.6l0.7 2.5l-2.2-1.5l-2.2 1.5l0.7-2.5l-2.1-1.6l2.6-0.1zM406.6 79l0.9 2.5l2.6 0.1l-2.1 1.6l0.7 2.5l-2.2-1.5l-2.2 1.5l0.7-2.5l-2.1-1.6l2.6-0.1zM379.7 73.9l0.9 2.5l2.6 0.1l-2.1 1.6l0.7 2.5l-2.2-1.5l-2.2 1.5l0.7-2.5l-2.1-1.6l2.6-0.1zM385.5 103.3l0.9 2.5l2.6 0.1l-2.1 1.6l0.7 2.5l-2.2-1.5l-2.2 1.5l0.7-2.5l-2.1-1.6l2.6-0.1zM392.7 99l0.9 2.5l2.6 0.1l-2.1 1.6l0.7 2.5l-2.2-1.5l-2.2 1.5l0.7-2.5l-2.1-1.6l2.6-0.1zM399.6 57.7l0.9 2.5l2.6 0.1l-2.1 1.6l0.7 2.5l-2.2-1.5l-2.2 1.5l0.7-2.5l-2.1-1.6l2.6-0.1zM406.7 80.8l0.9 2.5l2.6 0.1l-2.1 1.6l0.7 2.5l-2.2-1.5l-2.2 1.5l0.7-2.5l-2.1-1.6l2.6-0.1zM398.9 99.8l0.9 2.5l2.6 0.1l-2.1 1.6l0.7 2.5l-2.2-1.5l-2.2 1.5l0.7-2.5l-2.1-1.6l2.6-0.1zM406.8 74.6l0.9 2.5l2.6 0.1l-2.1 1.6l0.7 2.5l-2.2-1.5l-2.2 1.5l0.7-2.5l-2.1-1.6l2.6-0.1zM383.3 121.2l0.9 2.5l2.6 0.1l-2.1 1.6l0.7 2.5l-2.2-1.5l-2.2 1.5l0.7-2.5l-2.1-1.6l2.6-0.1zM437.3 82.7l0.9 2.5l2.6 0.1l-2.1 1.6l0.7 2.5l-2.2-1.5l-2.2 1.5l0.7-2.5l-2.1-1.6l2.6-0.1zM400.7 67.7l0.9 2.5l2.6 0.1l-2.1 1.6l0.7 2.5l-2.2-1.5l-2.2 1.5l0.7-2.5l-2.1-1.6l2.6-0.1zM373.5 104l0.9 2.5l2.6 0.1l-2.1 1.6l0.7 2.5l-2.2-1.5l-2.2 1.5l0.7-2.5l-2.1-1.6l2.6-0.1zM402.1 86.2l0.9 2.5l2.6 0.1l-2.1 1.6l0.7 2.5l-2.2-1.5l-2.2 1.5l0.7-2.5l-2.1-1.6l2.6-0.1zM438.7 117.3l0.9 2.5l2.6 0.1l-2.1 1.6l0.7 2.5l-2.2-1.5l-2.2 1.5l0.7-2.5l-2.1-1.6l2.6-0.1zM399.4 89.5l0.9 2.5l2.6 0.1l-2.1 1.6l0.7 2.5l-2.2-1.5l-2.2 1.5l0.7-2.5l-2.1-1.6l2.6-0.1zM388 105.1l0.9 2.5l2.6 0.1l-2.1 1.6l0.7 2.5l-2.2-1.5l-2.2 1.5l0.7-2.5l-2.1-1.6l2.6-0.1zM371.2 99.7l0.9 2.5l2.6 0.1l-2.1 1.6l0.7 2.5l-2.2-1.5l-2.2 1.5l0.7-2.5l-2.1-1.6l2.6-0.1zM381.3 81.3l0.9 2.5l2.6 0.1l-2.1 1.6l0.7 2.5l-2.2-1.5l-2.2 1.5l0.7-2.5l-2.1-1.6l2.6-0.1zM445.5 95.1l0.9 2.5l2.6 0.1l-2.1 1.6l0.7 2.5l-2.2-1.5l-2.2 1.5l0.7-2.5l-2.1-1.6l2.6-0.1zM397.4 80.6l0.9 2.5l2.6 0.1l-2.1 1.6l0.7 2.5l-2.2-1.5l-2.2 1.5l0.7-2.5l-2.1-1.6l2.6-0.1zM362 96.9l0.9 2.5l2.6 0.1l-2.1 1.6l0.7 2.5l-2.2-1.5l-2.2 1.5l0.7-2.5l-2.1-1.6l2.6-0.1zM368.4 80.3l0.9 2.5l2.6 0.1l-2.1 1.6l0.7 2.5l-2.2-1.5l-2.2 1.5l0.7-2.5l-2.1-1.6l2.6-0.1zM395.8 71.8l0.9 2.5l2.6 0.1l-2.1 1.6l0.7 2.5l-2.2-1.5l-2.2 1.5l0.7-2.5l-2.1-1.6l2.6-0.1zM381.6 102.8l0.9 2.5l2.6 0.1l-2.1 1.6l0.7 2.5l-2.2-1.5l-2.2 1.5l0.7-2.5l-2.1-1.6l2.6-0.1zM419.7 95.1l0.9 2.5l2.6 0.1l-2.1 1.6l0.7 2.5l-2.2-1.5l-2.2 1.5l0.7-2.5l-2.1-1.6l2.6-0.1zM389 92.5l0.9 2.5l2.6 0.1l-2.1 1.6l0.7 2.5l-2.2-1.5l-2.2 1.5l0.7-2.5l-2.1-1.6l2.6-0.1zM441.6 78.3l0.9 2.5l2.6 0.1l-2.1 1.6l0.7 2.5l-2.2-1.5l-2.2 1.5l0.7-2.5l-2.1-1.6l2.6-0.1zM423.4 98.8l0.9 2.5l2.6 0.1l-2.1 1.6l0.7 2.5l-2.2-1.5l-2.2 1.5l0.7-2.5l-2.1-1.6l2.6-0.1zM405.1 91.3l0.9 2.5l2.6 0.1l-2.1 1.6l0.7 2.5l-2.2-1.5l-2.2 1.5l0.7-2.5l-2.1-1.6l2.6-0.1zM402.7 106.3l0.9 2.5l2.6 0.1l-2.1 1.6l0.7 2.5l-2.2-1.5l-2.2 1.5l0.7-2.5l-2.1-1.6l2.6-0.1zM411.5 97.5l0.9 2.5l2.6 0.1l-2.1 1.6l0.7 2.5l-2.2-1.5l-2.2 1.5l0.7-2.5l-2.1-1.6l2.6-0.1zM370.4 115.3l0.9 2.5l2.6 0.1l-2.1 1.6l0.7 2.5l-2.2-1.5l-2.2 1.5l0.7-2.5l-2.1-1.6l2.6-0.1zM392 103.7l0.9 2.5l2.6 0.1l-2.1 1.6l0.7 2.5l-2.2-1.5l-2.2 1.5l0.7-2.5l-2.1-1.6l2.6-0.1zM414.3 102.5l0.9 2.5l2.6 0.1l-2.1 1.6l0.7 2.5l-2.2-1.5l-2.2 1.5l0.7-2.5l-2.1-1.6l2.6-0.1zM392.2 91.9l0.9 2.5l2.6 0.1l-2.1 1.6l0.7 2.5l-2.2-1.5l-2.2 1.5l0.7-2.5l-2.1-1.6l2.6-0.1zM448 98.7l0.9 2.5l2.6 0.1l-2.1 1.6l0.7 2.5l-2.2-1.5l-2.2 1.5l0.7-2.5l-2.1-1.6l2.6-0.1zM398.3 111.6l0.9 2.5l2.6 0.1l-2.1 1.6l0.7 2.5l-2.2-1.5l-2.2 1.5l0.7-2.5l-2.1-1.6l2.6-0.1zM404 110.3l0.9 2.5l2.6 0.1l-2.1 1.6l0.7 2.5l-2.2-1.5l-2.2 1.5l0.7-2.5l-2.1-1.6l2.6-0.1zM408.7 66.9l0.9 2.5l2.6 0.1l-2.1 1.6l0.7 2.5l-2.2-1.5l-2.2 1.5l0.7-2.5l-2.1-1.6l2.6-0.1zM401.7 97.6l0.9 2.5l2.6 0.1l-2.1 1.6l0.7 2.5l-2.2-1.5l-2.2 1.5l0.7-2.5l-2.1-1.6l2.6-0.1zM450.6 86l0.9 2.5l2.6 0.1l-2.1 1.6l0.7 2.5l-2.2-1.5l-2.2 1.5l0.7-2.5l-2.1-1.6l2.6-0.1zM367.3 95.7l0.9 2.5l2.6 0.1l-2.1 1.6l0.7 2.5l-2.2-1.5l-2.2 1.5l0.7-2.5l-2.1-1.6l2.6-0.1zM426.7 94.4l0.9 2.5l2.6 0.1l-2.1 1.6l0.7 2.5l-2.2-1.5l-2.2 1.5l0.7-2.5l-2.1-1.6l2.6-0.1zM402.2 110.8l0.9 2.5l2.6 0.1l-2.1 1.6l0.7 2.5l-2.2-1.5l-2.2 1.5l0.7-2.5l-2.1-1.6l2.6-0.1zM419.5 85.8l0.9 2.5l2.6 0.1l-2.1 1.6l0.7 2.5l-2.2-1.5l-2.2 1.5l0.7-2.5l-2.1-1.6l2.6-0.1zM409 61.7l0.9 2.5l2.6 0.1l-2.1 1.6l0.7 2.5l-2.2-1.5l-2.2 1.5l0.7-2.5l-2.1-1.6l2.6-0.1zM415.9 87.7l0.9 2.5l2.6 0.1l-2.1 1.6l0.7 2.5l-2.2-1.5l-2.2 1.5l0.7-2.5l-2.1-1.6l2.6-0.1zM465.4 85.6l0.9 2.5l2.6 0.1l-2.1 1.6l0.7 2.5l-2.2-1.5l-2.2 1.5l0.7-2.5l-2.1-1.6l2.6-0.1zM380.1 67l0.9 2.5l2.6 0.1l-2.1 1.6l0.7 2.5l-2.2-1.5l-2.2 1.5l0.7-2.5l-2.1-1.6l2.6-0.1zM388.1 93.4l0.9 2.5l2.6 0.1l-2.1 1.6l0.7 2.5l-2.2-1.5l-2.2 1.5l0.7-2.5l-2.1-1.6l2.6-0.1zM370.8 92.4l0.9 2.5l2.6 0.1l-2.1 1.6l0.7 2.5l-2.2-1.5l-2.2 1.5l0.7-2.5l-2.1-1.6l2.6-0.1zM401.3 101.7l0.9 2.5l2.6 0.1l-2.1 1.6l0.7 2.5l-2.2-1.5l-2.2 1.5l0.7-2.5l-2.1-1.6l2.6-0.1zM370.3 109.5l0.9 2.5l2.6 0.1l-2.1 1.6l0.7 2.5l-2.2-1.5l-2.2 1.5l0.7-2.5l-2.1-1.6l2.6-0.1zM403.9 118.6l0.9 2.5l2.6 0.1l-2.1 1.6l0.7 2.5l-2.2-1.5l-2.2 1.5l0.7-2.5l-2.1-1.6l2.6-0.1zM383.5 82.5l0.9 2.5l2.6 0.1l-2.1 1.6l0.7 2.5l-2.2-1.5l-2.2 1.5l0.7-2.5l-2.1-1.6l2.6-0.1zM438.4 81.5l0.9 2.5l2.6 0.1l-2.1 1.6l0.7 2.5l-2.2-1.5l-2.2 1.5l0.7-2.5l-2.1-1.6l2.6-0.1zM380.1 89.3l0.9 2.5l2.6 0.1l-2.1 1.6l0.7 2.5l-2.2-1.5l-2.2 1.5l0.7-2.5l-2.1-1.6l2.6-0.1zM445 116.5l0.9 2.5l2.6 0.1l-2.1 1.6l0.7 2.5l-2.2-1.5l-2.2 1.5l0.7-2.5l-2.1-1.6l2.6-0.1zM409 115.9l0.9 2.5l2.6 0.1l-2.1 1.6l0.7 2.5l-2.2-1.5l-2.2 1.5l0.7-2.5l-2.1-1.6l2.6-0.1zM385.6 72.5l0.9 2.5l2.6 0.1l-2.1 1.6l0.7 2.5l-2.2-1.5l-2.2 1.5l0.7-2.5l-2.1-1.6l2.6-0.1zM421.2 97.7l0.9 2.5l2.6 0.1l-2.1 1.6l0.7 2.5l-2.2-1.5l-2.2 1.5l0.7-2.5l-2.1-1.6l2.6-0.1zM448.4 76.9l0.9 2.5l2.6 0.1l-2.1 1.6l0.7 2.5l-2.2-1.5l-2.2 1.5l0.7-2.5l-2.1-1.6l2.6-0.1zM451.8 98.3l0.9 2.5l2.6 0.1l-2.1 1.6l0.7 2.5l-2.2-1.5l-2.2 1.5l0.7-2.5l-2.1-1.6l2.6-0.1zM383.8 118.8l0.9 2.5l2.6 0.1l-2.1 1.6l0.7 2.5l-2.2-1.5l-2.2 1.5l0.7-2.5l-2.1-1.6l2.6-0.1zM404.6 122.8l0.9 2.5l2.6 0.1l-2.1 1.6l0.7 2.5l-2.2-1.5l-2.2 1.5l0.7-2.5l-2.1-1.6l2.6-0.1zM444.7 87.6l0.9 2.5l2.6 0.1l-2.1 1.6l0.7 2.5l-2.2-1.5l-2.2 1.5l0.7-2.5l-2.1-1.6l2.6-0.1zM363.2 113.1l0.9 2.5l2.6 0.1l-2.1 1.6l0.7 2.5l-2.2-1.5l-2.2 1.5l0.7-2.5l-2.1-1.6l2.6-0.1zM392 61.4l0.9 2.5l2.6 0.1l-2.1 1.6l0.7 2.5l-2.2-1.5l-2.2 1.5l0.7-2.5l-2.1-1.6l2.6-0.1zM426.6 103.2l0.9 2.5l2.6 0.1l-2.1 1.6l0.7 2.5l-2.2-1.5l-2.2 1.5l0.7-2.5l-2.1-1.6l2.6-0.1zM394.3 70.9l0.9 2.5l2.6 0.1l-2.1 1.6l0.7 2.5l-2.2-1.5l-2.2 1.5l0.7-2.5l-2.1-1.6l2.6-0.1zM372 91.1l0.9 2.5l2.6 0.1l-2.1 1.6l0.7 2.5l-2.2-1.5l-2.2 1.5l0.7-2.5l-2.1-1.6l2.6-0.1zM408.7 73.7l0.9 2.5l2.6 0.1l-2.1 1.6l0.7 2.5l-2.2-1.5l-2.2 1.5l0.7-2.5l-2.1-1.6l2.6-0.1zM443.6 122l0.9 2.5l2.6 0.1l-2.1 1.6l0.7 2.5l-2.2-1.5l-2.2 1.5l0.7-2.5l-2.1-1.6l2.6-0.1zM405.3 78.1l0.9 2.5l2.6 0.1l-2.1 1.6l0.7 2.5l-2.2-1.5l-2.2 1.5l0.7-2.5l-2.1-1.6l2.6-0.1zM406.2 102.2l0.9 2.5l2.6 0.1l-2.1 1.6l0.7 2.5l-2.2-1.5l-2.2 1.5l0.7-2.5l-2.1-1.6l2.6-0.1zM358 83.1l0.9 2.5l2.6 0.1l-2.1 1.6l0.7 2.5l-2.2-1.5l-2.2 1.5l0.7-2.5l-2.1-1.6l2.6-0.1zM398.2 71l0.9 2.5l2.6 0.1l-2.1 1.6l0.7 2.5l-2.2-1.5l-2.2 1.5l0.7-2.5l-2.1-1.6l2.6-0.1zM395.5 99.6l0.9 2.5l2.6 0.1l-2.1 1.6l0.7 2.5l-2.2-1.5l-2.2 1.5l0.7-2.5l-2.1-1.6l2.6-0.1zM401 89.1l0.9 2.5l2.6 0.1l-2.1 1.6l0.7 2.5l-2.2-1.5l-2.2 1.5l0.7-2.5l-2.1-1.6l2.6-0.1zM472.8 112.7l0.9 2.5l2.6 0.1l-2.1 1.6l0.7 2.5l-2.2-1.5l-2.2 1.5l0.7-2.5l-2.1-1.6l2.6-0.1zM437.6 96.9l0.9 2.5l2.6 0.1l-2.1 1.6l0.7 2.5l-2.2-1.5l-2.2 1.5l0.7-2.5l-2.1-1.6l2.6-0.1zM430.2 83.1l0.9 2.5l2.6 0.1l-2.1 1.6l0.7 2.5l-2.2-1.5l-2.2 1.5l0.7-2.5l-2.1-1.6l2.6-0.1zM388.2 92.2l0.9 2.5l2.6 0.1l-2.1 1.6l0.7 2.5l-2.2-1.5l-2.2 1.5l0.7-2.5l-2.1-1.6l2.6-0.1zM390.7 82.5l0.9 2.5l2.6 0.1l-2.1 1.6l0.7 2.5l-2.2-1.5l-2.2 1.5l0.7-2.5l-2.1-1.6l2.6-0.1zM401.8 96.5l0.9 2.5l2.6 0.1l-2.1 1.6l0.7 2.5l-2.2-1.5l-2.2 1.5l0.7-2.5l-2.1-1.6l2.6-0.1zM421.1 126.8l0.9 2.5l2.6 0.1l-2.1 1.6l0.7 2.5l-2.2-1.5l-2.2 1.5l0.7-2.5l-2.1-1.6l2.6-0.1zM359.8 95.9l0.9 2.5l2.6 0.1l-2.1 1.6l0.7 2.5l-2.2-1.5l-2.2 1.5l0.7-2.5l-2.1-1.6l2.6-0.1zM426.3 105.2l0.9 2.5l2.6 0.1l-2.1 1.6l0.7 2.5l-2.2-1.5l-2.2 1.5l0.7-2.5l-2.1-1.6l2.6-0.1zM445.2 85.1l0.9 2.5l2.6 0.1l-2.1 1.6l0.7 2.5l-2.2-1.5l-2.2 1.5l0.7-2.5l-2.1-1.6l2.6-0.1zM375.4 86.4l0.9 2.5l2.6 0.1l-2.1 1.6l0.7 2.5l-2.2-1.5l-2.2 1.5l0.7-2.5l-2.1-1.6l2.6-0.1zM375.2 95.2l0.9 2.5l2.6 0.1l-2.1 1.6l0.7 2.5l-2.2-1.5l-2.2 1.5l0.7-2.5l-2.1-1.6l2.6-0.1zM399.1 82.4l0.9 2.5l2.6 0.1l-2.1 1.6l0.7 2.5l-2.2-1.5l-2.2 1.5l0.7-2.5l-2.1-1.6l2.6-0.1zM409.9 118.8l0.9 2.5l2.6 0.1l-2.1 1.6l0.7 2.5l-2.2-1.5l-2.2 1.5l0.7-2.5l-2.1-1.6l2.6-0.1zM442.9 94l0.9 2.5l2.6 0.1l-2.1 1.6l0.7 2.5l-2.2-1.5l-2.2 1.5l0.7-2.5l-2.1-1.6l2.6-0.1zM400.3 100.4l0.9 2.5l2.6 0.1l-2.1 1.6l0.7 2.5l-2.2-1.5l-2.2 1.5l0.7-2.5l-2.1-1.6l2.6-0.1zM433.4 98l0.9 2.5l2.6 0.1l-2.1 1.6l0.7 2.5l-2.2-1.5l-2.2 1.5l0.7-2.5l-2.1-1.6l2.6-0.1zM372.1 70.5l0.9 2.5l2.6 0.1l-2.1 1.6l0.7 2.5l-2.2-1.5l-2.2 1.5l0.7-2.5l-2.1-1.6l2.6-0.1zM366.9 120.2l0.9 2.5l2.6 0.1l-2.1 1.6l0.7 2.5l-2.2-1.5l-2.2 1.5l0.7-2.5l-2.1-1.6l2.6-0.1zM438.1 96.2l0.9 2.5l2.6 0.1l-2.1 1.6l0.7 2.5l-2.2-1.5l-2.2 1.5l0.7-2.5l-2.1-1.6l2.6-0.1zM430.2 121.3l0.9 2.5l2.6 0.1l-2.1 1.6l0.7 2.5l-2.2-1.5l-2.2 1.5l0.7-2.5l-2.1-1.6l2.6-0.1zM399.3 97.5l0.9 2.5l2.6 0.1l-2.1 1.6l0.7 2.5l-2.2-1.5l-2.2 1.5l0.7-2.5l-2.1-1.6l2.6-0.1zM435.4 106.6l0.9 2.5l2.6 0.1l-2.1 1.6l0.7 2.5l-2.2-1.5l-2.2 1.5l0.7-2.5l-2.1-1.6l2.6-0.1zM410.4 61.6l0.9 2.5l2.6 0.1l-2.1 1.6l0.7 2.5l-2.2-1.5l-2.2 1.5l0.7-2.5l-2.1-1.6l2.6-0.1zM417.4 88.3l0.9 2.5l2.6 0.1l-2.1 1.6l0.7 2.5l-2.2-1.5l-2.2 1.5l0.7-2.5l-2.1-1.6l2.6-0.1zM381.2 83.7l0.9 2.5l2.6 0.1l-2.1 1.6l0.7 2.5l-2.2-1.5l-2.2 1.5l0.7-2.5l-2.1-1.6l2.6-0.1zM381.1 66.5l0.9 2.5l2.6 0.1l-2.1 1.6l0.7 2.5l-2.2-1.5l-2.2 1.5l0.7-2.5l-2.1-1.6l2.6-0.1zM396.4 61.7l0.9 2.5l2.6 0.1l-2.1 1.6l0.7 2.5l-2.2-1.5l-2.2 1.5l0.7-2.5l-2.1-1.6l2.6-0.1zM383.9 96.7l0.9 2.5l2.6 0.1l-2.1 1.6l0.7 2.5l-2.2-1.5l-2.2 1.5l0.7-2.5l-2.1-1.6l2.6-0.1zM394.8 104.5l0.9 2.5l2.6 0.1l-2.1 1.6l0.7 2.5l-2.2-1.5l-2.2 1.5l0.7-2.5l-2.1-1.6l2.6-0.1zM391.9 109.6l0.9 2.5l2.6 0.1l-2.1 1.6l0.7 2.5l-2.2-1.5l-2.2 1.5l0.7-2.5l-2.1-1.6l2.6-0.1zM416.3 106.8l0.9 2.5l2.6 0.1l-2.1 1.6l0.7 2.5l-2.2-1.5l-2.2 1.5l0.7-2.5l-2.1-1.6l2.6-0.1zM391.1 71.3l0.9 2.5l2.6 0.1l-2.1 1.6l0.7 2.5l-2.2-1.5l-2.2 1.5l0.7-2.5l-2.1-1.6l2.6-0.1zM375.1 93l0.9 2.5l2.6 0.1l-2.1 1.6l0.7 2.5l-2.2-1.5l-2.2 1.5l0.7-2.5l-2.1-1.6l2.6-0.1zM406.8 109.1l0.9 2.5l2.6 0.1l-2.1 1.6l0.7 2.5l-2.2-1.5l-2.2 1.5l0.7-2.5l-2.1-1.6l2.6-0.1zM421.8 96.8l0.9 2.5l2.6 0.1l-2.1 1.6l0.7 2.5l-2.2-1.5l-2.2 1.5l0.7-2.5l-2.1-1.6l2.6-0.1zM430.5 110.1l0.9 2.5l2.6 0.1l-2.1 1.6l0.7 2.5l-2.2-1.5l-2.2 1.5l0.7-2.5l-2.1-1.6l2.6-0.1zM389.4 110.7l0.9 2.5l2.6 0.1l-2.1 1.6l0.7 2.5l-2.2-1.5l-2.2 1.5l0.7-2.5l-2.1-1.6l2.6-0.1zM435.8 97.6l0.9 2.5l2.6 0.1l-2.1 1.6l0.7 2.5l-2.2-1.5l-2.2 1.5l0.7-2.5l-2.1-1.6l2.6-0.1zM426.1 109.2l0.9 2.5l2.6 0.1l-2.1 1.6l0.7 2.5l-2.2-1.5l-2.2 1.5l0.7-2.5l-2.1-1.6l2.6-0.1zM407.2 74.3l0.9 2.5l2.6 0.1l-2.1 1.6l0.7 2.5l-2.2-1.5l-2.2 1.5l0.7-2.5l-2.1-1.6l2.6-0.1zM402 118.5l0.9 2.5l2.6 0.1l-2.1 1.6l0.7 2.5l-2.2-1.5l-2.2 1.5l0.7-2.5l-2.1-1.6l2.6-0.1zM450.1 102.7l0.9 2.5l2.6 0.1l-2.1 1.6l0.7 2.5l-2.2-1.5l-2.2 1.5l0.7-2.5l-2.1-1.6l2.6-0.1zM434.5 82.6l0.9 2.5l2.6 0.1l-2.1 1.6l0.7 2.5l-2.2-1.5l-2.2 1.5l0.7-2.5l-2.1-1.6l2.6-0.1zM422.3 95.5l0.9 2.5l2.6 0.1l-2.1 1.6l0.7 2.5l-2.2-1.5l-2.2 1.5l0.7-2.5l-2.1-1.6l2.6-0.1zM362.9 93.8l0.9 2.5l2.6 0.1l-2.1 1.6l0.7 2.5l-2.2-1.5l-2.2 1.5l0.7-2.5l-2.1-1.6l2.6-0.1zM394.4 100.8l0.9 2.5l2.6 0.1l-2.1 1.6l0.7 2.5l-2.2-1.5l-2.2 1.5l0.7-2.5l-2.1-1.6l2.6-0.1zM433.7 103.2l0.9 2.5l2.6 0.1l-2.1 1.6l0.7 2.5l-2.2-1.5l-2.2 1.5l0.7-2.5l-2.1-1.6l2.6-0.1zM379.1 85.7l0.9 2.5l2.6 0.1l-2.1 1.6l0.7 2.5l-2.2-1.5l-2.2 1.5l0.7-2.5l-2.1-1.6l2.6-0.1zM453.8 111.8l0.9 2.5l2.6 0.1l-2.1 1.6l0.7 2.5l-2.2-1.5l-2.2 1.5l0.7-2.5l-2.1-1.6l2.6-0.1zM375 89.2l0.9 2.5l2.6 0.1l-2.1 1.6l0.7 2.5l-2.2-1.5l-2.2 1.5l0.7-2.5l-2.1-1.6l2.6-0.1zM411.9 109.4l0.9 2.5l2.6 0.1l-2.1 1.6l0.7 2.5l-2.2-1.5l-2.2 1.5l0.7-2.5l-2.1-1.6l2.6-0.1zM420.4 82.1l0.9 2.5l2.6 0.1l-2.1 1.6l0.7 2.5l-2.2-1.5l-2.2 1.5l0.7-2.5l-2.1-1.6l2.6-0.1zM373.6 76.9l0.9 2.5l2.6 0.1l-2.1 1.6l0.7 2.5l-2.2-1.5l-2.2 1.5l0.7-2.5l-2.1-1.6l2.6-0.1zM371.1 96.1l0.9 2.5l2.6 0.1l-2.1 1.6l0.7 2.5l-2.2-1.5l-2.2 1.5l0.7-2.5l-2.1-1.6l2.6-0.1zM403.7 81.9l0.9 2.5l2.6 0.1l-2.1 1.6l0.7 2.5l-2.2-1.5l-2.2 1.5l0.7-2.5l-2.1-1.6l2.6-0.1zM398.8 97l0.9 2.5l2.6 0.1l-2.1 1.6l0.7 2.5l-2.2-1.5l-2.2 1.5l0.7-2.5l-2.1-1.6l2.6-0.1zM415.7 106.3l0.9 2.5l2.6 0.1l-2.1 1.6l0.7 2.5l-2.2-1.5l-2.2 1.5l0.7-2.5l-2.1-1.6l2.6-0.1zM466.6 85.1l0.9 2.5l2.6 0.1l-2.1 1.6l0.7 2.5l-2.2-1.5l-2.2 1.5l0.7-2.5l-2.1-1.6l2.6-0.1zM381 101.6l0.9 2.5l2.6 0.1l-2.1 1.6l0.7 2.5l-2.2-1.5l-2.2 1.5l0.7-2.5l-2.1-1.6l2.6-0.1zM422.9 105.5l0.9 2.5l2.6 0.1l-2.1 1.6l0.7 2.5l-2.2-1.5l-2.2 1.5l0.7-2.5l-2.1-1.6l2.6-0.1zM423.4 87.1l0.9 2.5l2.6 0.1l-2.1 1.6l0.7 2.5l-2.2-1.5l-2.2 1.5l0.7-2.5l-2.1-1.6l2.6-0.1zM404.6 100.4l0.9 2.5l2.6 0.1l-2.1 1.6l0.7 2.5l-2.2-1.5l-2.2 1.5l0.7-2.5l-2.1-1.6l2.6-0.1zM375.9 89.8l0.9 2.5l2.6 0.1l-2.1 1.6l0.7 2.5l-2.2-1.5l-2.2 1.5l0.7-2.5l-2.1-1.6l2.6-0.1zM424.8 63.2l0.9 2.5l2.6 0.1l-2.1 1.6l0.7 2.5l-2.2-1.5l-2.2 1.5l0.7-2.5l-2.1-1.6l2.6-0.1zM407.6 106.5l0.9 2.5l2.6 0.1l-2.1 1.6l0.7 2.5l-2.2-1.5l-2.2 1.5l0.7-2.5l-2.1-1.6l2.6-0.1zM412.6 108.9l0.9 2.5l2.6 0.1l-2.1 1.6l0.7 2.5l-2.2-1.5l-2.2 1.5l0.7-2.5l-2.1-1.6l2.6-0.1zM381.8 87.7l0.9 2.5l2.6 0.1l-2.1 1.6l0.7 2.5l-2.2-1.5l-2.2 1.5l0.7-2.5l-2.1-1.6l2.6-0.1zM427.5 64.4l0.9 2.5l2.6 0.1l-2.1 1.6l0.7 2.5l-2.2-1.5l-2.2 1.5l0.7-2.5l-2.1-1.6l2.6-0.1zM442.9 122.6l0.9 2.5l2.6 0.1l-2.1 1.6l0.7 2.5l-2.2-1.5l-2.2 1.5l0.7-2.5l-2.1-1.6l2.6-0.1zM388.7 119l0.9 2.5l2.6 0.1l-2.1 1.6l0.7 2.5l-2.2-1.5l-2.2 1.5l0.7-2.5l-2.1-1.6l2.6-0.1zM402.2 68.4l0.9 2.5l2.6 0.1l-2.1 1.6l0.7 2.5l-2.2-1.5l-2.2 1.5l0.7-2.5l-2.1-1.6l2.6-0.1zM355.8 79.7l0.9 2.5l2.6 0.1l-2.1 1.6l0.7 2.5l-2.2-1.5l-2.2 1.5l0.7-2.5l-2.1-1.6l2.6-0.1zM410.3 116.4l0.9 2.5l2.6 0.1l-2.1 1.6l0.7 2.5l-2.2-1.5l-2.2 1.5l0.7-2.5l-2.1-1.6l2.6-0.1zM388.5 66l0.9 2.5l2.6 0.1l-2.1 1.6l0.7 2.5l-2.2-1.5l-2.2 1.5l0.7-2.5l-2.1-1.6l2.6-0.1zM396.9 72.1l0.9 2.5l2.6 0.1l-2.1 1.6l0.7 2.5l-2.2-1.5l-2.2 1.5l0.7-2.5l-2.1-1.6l2.6-0.1zM435.3 81.4l0.9 2.5l2.6 0.1l-2.1 1.6l0.7 2.5l-2.2-1.5l-2.2 1.5l0.7-2.5l-2.1-1.6l2.6-0.1zM438.4 87l0.9 2.5l2.6 0.1l-2.1 1.6l0.7 2.5l-2.2-1.5l-2.2 1.5l0.7-2.5l-2.1-1.6l2.6-0.1zM452.4 118.7l0.9 2.5l2.6 0.1l-2.1 1.6l0.7 2.5l-2.2-1.5l-2.2 1.5l0.7-2.5l-2.1-1.6l2.6-0.1zM363.7 102.8l0.9 2.5l2.6 0.1l-2.1 1.6l0.7 2.5l-2.2-1.5l-2.2 1.5l0.7-2.5l-2.1-1.6l2.6-0.1zM374.5 87.4l0.9 2.5l2.6 0.1l-2.1 1.6l0.7 2.5l-2.2-1.5l-2.2 1.5l0.7-2.5l-2.1-1.6l2.6-0.1zM385.6 58.1l0.9 2.5l2.6 0.1l-2.1 1.6l0.7 2.5l-2.2-1.5l-2.2 1.5l0.7-2.5l-2.1-1.6l2.6-0.1zM426.7 106.7l0.9 2.5l2.6 0.1l-2.1 1.6l0.7 2.5l-2.2-1.5l-2.2 1.5l0.7-2.5l-2.1-1.6l2.6-0.1zM415.7 78l0.9 2.5l2.6 0.1l-2.1 1.6l0.7 2.5l-2.2-1.5l-2.2 1.5l0.7-2.5l-2.1-1.6l2.6-0.1zM468.1 103.3l0.9 2.5l2.6 0.1l-2.1 1.6l0.7 2.5l-2.2-1.5l-2.2 1.5l0.7-2.5l-2.1-1.6l2.6-0.1zM419.4 109.9l0.9 2.5l2.6 0.1l-2.1 1.6l0.7 2.5l-2.2-1.5l-2.2 1.5l0.7-2.5l-2.1-1.6l2.6-0.1zM405.8 110l0.9 2.5l2.6 0.1l-2.1 1.6l0.7 2.5l-2.2-1.5l-2.2 1.5l0.7-2.5l-2.1-1.6l2.6-0.1zM468.4 92.1l0.9 2.5l2.6 0.1l-2.1 1.6l0.7 2.5l-2.2-1.5l-2.2 1.5l0.7-2.5l-2.1-1.6l2.6-0.1zM420.7 81.9l0.9 2.5l2.6 0.1l-2.1 1.6l0.7 2.5l-2.2-1.5l-2.2 1.5l0.7-2.5l-2.1-1.6l2.6-0.1zM446.9 86.5l0.9 2.5l2.6 0.1l-2.1 1.6l0.7 2.5l-2.2-1.5l-2.2 1.5l0.7-2.5l-2.1-1.6l2.6-0.1zM372.7 89.6l0.9 2.5l2.6 0.1l-2.1 1.6l0.7 2.5l-2.2-1.5l-2.2 1.5l0.7-2.5l-2.1-1.6l2.6-0.1zM407.5 73.9l0.9 2.5l2.6 0.1l-2.1 1.6l0.7 2.5l-2.2-1.5l-2.2 1.5l0.7-2.5l-2.1-1.6l2.6-0.1zM431 95.2l0.9 2.5l2.6 0.1l-2.1 1.6l0.7 2.5l-2.2-1.5l-2.2 1.5l0.7-2.5l-2.1-1.6l2.6-0.1zM448.9 74.1l0.9 2.5l2.6 0.1l-2.1 1.6l0.7 2.5l-2.2-1.5l-2.2 1.5l0.7-2.5l-2.1-1.6l2.6-0.1zM408.9 101l0.9 2.5l2.6 0.1l-2.1 1.6l0.7 2.5l-2.2-1.5l-2.2 1.5l0.7-2.5l-2.1-1.6l2.6-0.1zM414.2 66.3l0.9 2.5l2.6 0.1l-2.1 1.6l0.7 2.5l-2.2-1.5l-2.2 1.5l0.7-2.5l-2.1-1.6l2.6-0.1zM435.7 75.3l0.9 2.5l2.6 0.1l-2.1 1.6l0.7 2.5l-2.2-1.5l-2.2 1.5l0.7-2.5l-2.1-1.6l2.6-0.1zM409.4 111.9l0.9 2.5l2.6 0.1l-2.1 1.6l0.7 2.5l-2.2-1.5l-2.2 1.5l0.7-2.5l-2.1-1.6l2.6-0.1zM380.2 74.7l0.9 2.5l2.6 0.1l-2.1 1.6l0.7 2.5l-2.2-1.5l-2.2 1.5l0.7-2.5l-2.1-1.6l2.6-0.1zM422.5 128.9l0.9 2.5l2.6 0.1l-2.1 1.6l0.7 2.5l-2.2-1.5l-2.2 1.5l0.7-2.5l-2.1-1.6l2.6-0.1zM388.7 100.9l0.9 2.5l2.6 0.1l-2.1 1.6l0.7 2.5l-2.2-1.5l-2.2 1.5l0.7-2.5l-2.1-1.6l2.6-0.1zM418.6 100.4l0.9 2.5l2.6 0.1l-2.1 1.6l0.7 2.5l-2.2-1.5l-2.2 1.5l0.7-2.5l-2.1-1.6l2.6-0.1zM365.2 84.1l0.9 2.5l2.6 0.1l-2.1 1.6l0.7 2.5l-2.2-1.5l-2.2 1.5l0.7-2.5l-2.1-1.6l2.6-0.1zM440.9 128.4l0.9 2.5l2.6 0.1l-2.1 1.6l0.7 2.5l-2.2-1.5l-2.2 1.5l0.7-2.5l-2.1-1.6l2.6-0.1zM454.2 116.4l0.9 2.5l2.6 0.1l-2.1 1.6l0.7 2.5l-2.2-1.5l-2.2 1.5l0.7-2.5l-2.1-1.6l2.6-0.1zM391.3 97.5l0.9 2.5l2.6 0.1l-2.1 1.6l0.7 2.5l-2.2-1.5l-2.2 1.5l0.7-2.5l-2.1-1.6l2.6-0.1zM394.4 106.1l0.9 2.5l2.6 0.1l-2.1 1.6l0.7 2.5l-2.2-1.5l-2.2 1.5l0.7-2.5l-2.1-1.6l2.6-0.1zM391.1 76.3l0.9 2.5l2.6 0.1l-2.1 1.6l0.7 2.5l-2.2-1.5l-2.2 1.5l0.7-2.5l-2.1-1.6l2.6-0.1zM451 104.2l0.9 2.5l2.6 0.1l-2.1 1.6l0.7 2.5l-2.2-1.5l-2.2 1.5l0.7-2.5l-2.1-1.6l2.6-0.1zM445.7 98.6l0.9 2.5l2.6 0.1l-2.1 1.6l0.7 2.5l-2.2-1.5l-2.2 1.5l0.7-2.5l-2.1-1.6l2.6-0.1zM426.8 88.1l0.9 2.5l2.6 0.1l-2.1 1.6l0.7 2.5l-2.2-1.5l-2.2 1.5l0.7-2.5l-2.1-1.6l2.6-0.1zM417.5 105.9l0.9 2.5l2.6 0.1l-2.1 1.6l0.7 2.5l-2.2-1.5l-2.2 1.5l0.7-2.5l-2.1-1.6l2.6-0.1zM424.6 106.7l0.9 2.5l2.6 0.1l-2.1 1.6l0.7 2.5l-2.2-1.5l-2.2 1.5l0.7-2.5l-2.1-1.6l2.6-0.1zM455.2 110.7l0.9 2.5l2.6 0.1l-2.1 1.6l0.7 2.5l-2.2-1.5l-2.2 1.5l0.7-2.5l-2.1-1.6l2.6-0.1zM424.6 121.4l0.9 2.5l2.6 0.1l-2.1 1.6l0.7 2.5l-2.2-1.5l-2.2 1.5l0.7-2.5l-2.1-1.6l2.6-0.1zM375.7 103.1l0.9 2.5l2.6 0.1l-2.1 1.6l0.7 2.5l-2.2-1.5l-2.2 1.5l0.7-2.5l-2.1-1.6l2.6-0.1zM421.3 89.8l0.9 2.5l2.6 0.1l-2.1 1.6l0.7 2.5l-2.2-1.5l-2.2 1.5l0.7-2.5l-2.1-1.6l2.6-0.1zM425.4 72.3l0.9 2.5l2.6 0.1l-2.1 1.6l0.7 2.5l-2.2-1.5l-2.2 1.5l0.7-2.5l-2.1-1.6l2.6-0.1zM442.2 95.7l0.9 2.5l2.6 0.1l-2.1 1.6l0.7 2.5l-2.2-1.5l-2.2 1.5l0.7-2.5l-2.1-1.6l2.6-0.1zM370.1 88.7l0.9 2.5l2.6 0.1l-2.1 1.6l0.7 2.5l-2.2-1.5l-2.2 1.5l0.7-2.5l-2.1-1.6l2.6-0.1zM422.2 125.2l0.9 2.5l2.6 0.1l-2.1 1.6l0.7 2.5l-2.2-1.5l-2.2 1.5l0.7-2.5l-2.1-1.6l2.6-0.1zM371 74l0.9 2.5l2.6 0.1l-2.1 1.6l0.7 2.5l-2.2-1.5l-2.2 1.5l0.7-2.5l-2.1-1.6l2.6-0.1zM404.4 93.1l0.9 2.5l2.6 0.1l-2.1 1.6l0.7 2.5l-2.2-1.5l-2.2 1.5l0.7-2.5l-2.1-1.6l2.6-0.1zM460.2 84.7l0.9 2.5l2.6 0.1l-2.1 1.6l0.7 2.5l-2.2-1.5l-2.2 1.5l0.7-2.5l-2.1-1.6l2.6-0.1zM396.1 102.3l0.9 2.5l2.6 0.1l-2.1 1.6l0.7 2.5l-2.2-1.5l-2.2 1.5l0.7-2.5l-2.1-1.6l2.6-0.1zM423.7 81.9l0.9 2.5l2.6 0.1l-2.1 1.6l0.7 2.5l-2.2-1.5l-2.2 1.5l0.7-2.5l-2.1-1.6l2.6-0.1zM460.2 89.9l0.9 2.5l2.6 0.1l-2.1 1.6l0.7 2.5l-2.2-1.5l-2.2 1.5l0.7-2.5l-2.1-1.6l2.6-0.1zM402.4 109.8l0.9 2.5l2.6 0.1l-2.1 1.6l0.7 2.5l-2.2-1.5l-2.2 1.5l0.7-2.5l-2.1-1.6l2.6-0.1zM402.6 102.8l0.9 2.5l2.6 0.1l-2.1 1.6l0.7 2.5l-2.2-1.5l-2.2 1.5l0.7-2.5l-2.1-1.6l2.6-0.1zM387.7 109.8l0.9 2.5l2.6 0.1l-2.1 1.6l0.7 2.5l-2.2-1.5l-2.2 1.5l0.7-2.5l-2.1-1.6l2.6-0.1zM393.8 68.9l0.9 2.5l2.6 0.1l-2.1 1.6l0.7 2.5l-2.2-1.5l-2.2 1.5l0.7-2.5l-2.1-1.6l2.6-0.1zM380.1 102.3l0.9 2.5l2.6 0.1l-2.1 1.6l0.7 2.5l-2.2-1.5l-2.2 1.5l0.7-2.5l-2.1-1.6l2.6-0.1zM378.3 93.6l0.9 2.5l2.6 0.1l-2.1 1.6l0.7 2.5l-2.2-1.5l-2.2 1.5l0.7-2.5l-2.1-1.6l2.6-0.1zM367.8 102.3l0.9 2.5l2.6 0.1l-2.1 1.6l0.7 2.5l-2.2-1.5l-2.2 1.5l0.7-2.5l-2.1-1.6l2.6-0.1zM366.3 82.3l0.9 2.5l2.6 0.1l-2.1 1.6l0.7 2.5l-2.2-1.5l-2.2 1.5l0.7-2.5l-2.1-1.6l2.6-0.1zM379.8 94.3l0.9 2.5l2.6 0.1l-2.1 1.6l0.7 2.5l-2.2-1.5l-2.2 1.5l0.7-2.5l-2.1-1.6l2.6-0.1zM404.9 99.6l0.9 2.5l2.6 0.1l-2.1 1.6l0.7 2.5l-2.2-1.5l-2.2 1.5l0.7-2.5l-2.1-1.6l2.6-0.1zM396.9 99.2l0.9 2.5l2.6 0.1l-2.1 1.6l0.7 2.5l-2.2-1.5l-2.2 1.5l0.7-2.5l-2.1-1.6l2.6-0.1zM402.8 99.2l0.9 2.5l2.6 0.1l-2.1 1.6l0.7 2.5l-2.2-1.5l-2.2 1.5l0.7-2.5l-2.1-1.6l2.6-0.1zM456.1 106.1l0.9 2.5l2.6 0.1l-2.1 1.6l0.7 2.5l-2.2-1.5l-2.2 1.5l0.7-2.5l-2.1-1.6l2.6-0.1zM384.6 73.9l0.9 2.5l2.6 0.1l-2.1 1.6l0.7 2.5l-2.2-1.5l-2.2 1.5l0.7-2.5l-2.1-1.6l2.6-0.1zM377.4 109.7l0.9 2.5l2.6 0.1l-2.1 1.6l0.7 2.5l-2.2-1.5l-2.2 1.5l0.7-2.5l-2.1-1.6l2.6-0.1zM412.8 83.8l0.9 2.5l2.6 0.1l-2.1 1.6l0.7 2.5l-2.2-1.5l-2.2 1.5l0.7-2.5l-2.1-1.6l2.6-0.1zM441.3 75.9l0.9 2.5l2.6 0.1l-2.1 1.6l0.7 2.5l-2.2-1.5l-2.2 1.5l0.7-2.5l-2.1-1.6l2.6-0.1zM434.4 104.8l0.9 2.5l2.6 0.1l-2.1 1.6l0.7 2.5l-2.2-1.5l-2.2 1.5l0.7-2.5l-2.1-1.6l2.6-0.1zM415.4 99.7l0.9 2.5l2.6 0.1l-2.1 1.6l0.7 2.5l-2.2-1.5l-2.2 1.5l0.7-2.5l-2.1-1.6l2.6-0.1zM390.2 79.1l0.9 2.5l2.6 0.1l-2.1 1.6l0.7 2.5l-2.2-1.5l-2.2 1.5l0.7-2.5l-2.1-1.6l2.6-0.1zM422.9 110.1l0.9 2.5l2.6 0.1l-2.1 1.6l0.7 2.5l-2.2-1.5l-2.2 1.5l0.7-2.5l-2.1-1.6l2.6-0.1zM389.1 94.7l0.9 2.5l2.6 0.1l-2.1 1.6l0.7 2.5l-2.2-1.5l-2.2 1.5l0.7-2.5l-2.1-1.6l2.6-0.1zM375.8 102.1l0.9 2.5l2.6 0.1l-2.1 1.6l0.7 2.5l-2.2-1.5l-2.2 1.5l0.7-2.5l-2.1-1.6l2.6-0.1zM409.9 111.5l0.9 2.5l2.6 0.1l-2.1 1.6l0.7 2.5l-2.2-1.5l-2.2 1.5l0.7-2.5l-2.1-1.6l2.6-0.1zM454.5 104.7l0.9 2.5l2.6 0.1l-2.1 1.6l0.7 2.5l-2.2-1.5l-2.2 1.5l0.7-2.5l-2.1-1.6l2.6-0.1zM364.3 86.6l0.9 2.5l2.6 0.1l-2.1 1.6l0.7 2.5l-2.2-1.5l-2.2 1.5l0.7-2.5l-2.1-1.6l2.6-0.1zM421.1 119.4l0.9 2.5l2.6 0.1l-2.1 1.6l0.7 2.5l-2.2-1.5l-2.2 1.5l0.7-2.5l-2.1-1.6l2.6-0.1zM382.7 79.8l0.9 2.5l2.6 0.1l-2.1 1.6l0.7 2.5l-2.2-1.5l-2.2 1.5l0.7-2.5l-2.1-1.6l2.6-0.1zM405 83l0.9 2.5l2.6 0.1l-2.1 1.6l0.7 2.5l-2.2-1.5l-2.2 1.5l0.7-2.5l-2.1-1.6l2.6-0.1zM411.9 115.5l0.9 2.5l2.6 0.1l-2.1 1.6l0.7 2.5l-2.2-1.5l-2.2 1.5l0.7-2.5l-2.1-1.6l2.6-0.1zM401.9 113.7l0.9 2.5l2.6 0.1l-2.1 1.6l0.7 2.5l-2.2-1.5l-2.2 1.5l0.7-2.5l-2.1-1.6l2.6-0.1zM359.6 84.2l0.9 2.5l2.6 0.1l-2.1 1.6l0.7 2.5l-2.2-1.5l-2.2 1.5l0.7-2.5l-2.1-1.6l2.6-0.1zM436.1 96.6l0.9 2.5l2.6 0.1l-2.1 1.6l0.7 2.5l-2.2-1.5l-2.2 1.5l0.7-2.5l-2.1-1.6l2.6-0.1zM417.9 109l0.9 2.5l2.6 0.1l-2.1 1.6l0.7 2.5l-2.2-1.5l-2.2 1.5l0.7-2.5l-2.1-1.6l2.6-0.1zM404.6 67.8l0.9 2.5l2.6 0.1l-2.1 1.6l0.7 2.5l-2.2-1.5l-2.2 1.5l0.7-2.5l-2.1-1.6l2.6-0.1zM379.2 79.6l0.9 2.5l2.6 0.1l-2.1 1.6l0.7 2.5l-2.2-1.5l-2.2 1.5l0.7-2.5l-2.1-1.6l2.6-0.1zM476.6 108.5l0.9 2.5l2.6 0.1l-2.1 1.6l0.7 2.5l-2.2-1.5l-2.2 1.5l0.7-2.5l-2.1-1.6l2.6-0.1zM386 54.7l0.9 2.5l2.6 0.1l-2.1 1.6l0.7 2.5l-2.2-1.5l-2.2 1.5l0.7-2.5l-2.1-1.6l2.6-0.1zM456.2 111.1l0.9 2.5l2.6 0.1l-2.1 1.6l0.7 2.5l-2.2-1.5l-2.2 1.5l0.7-2.5l-2.1-1.6l2.6-0.1zM385.7 68l0.9 2.5l2.6 0.1l-2.1 1.6l0.7 2.5l-2.2-1.5l-2.2 1.5l0.7-2.5l-2.1-1.6l2.6-0.1zM395.5 69.6l0.9 2.5l2.6 0.1l-2.1 1.6l0.7 2.5l-2.2-1.5l-2.2 1.5l0.7-2.5l-2.1-1.6l2.6-0.1zM397.9 89.7l0.9 2.5l2.6 0.1l-2.1 1.6l0.7 2.5l-2.2-1.5l-2.2 1.5l0.7-2.5l-2.1-1.6l2.6-0.1zM377 89.3l0.9 2.5l2.6 0.1l-2.1 1.6l0.7 2.5l-2.2-1.5l-2.2 1.5l0.7-2.5l-2.1-1.6l2.6-0.1zM384.3 84.9l0.9 2.5l2.6 0.1l-2.1 1.6l0.7 2.5l-2.2-1.5l-2.2 1.5l0.7-2.5l-2.1-1.6l2.6-0.1zM376.6 91.1l0.9 2.5l2.6 0.1l-2.1 1.6l0.7 2.5l-2.2-1.5l-2.2 1.5l0.7-2.5l-2.1-1.6l2.6-0.1zM398.3 105l0.9 2.5l2.6 0.1l-2.1 1.6l0.7 2.5l-2.2-1.5l-2.2 1.5l0.7-2.5l-2.1-1.6l2.6-0.1zM410.3 85.6l0.9 2.5l2.6 0.1l-2.1 1.6l0.7 2.5l-2.2-1.5l-2.2 1.5l0.7-2.5l-2.1-1.6l2.6-0.1zM407.2 76.5l0.9 2.5l2.6 0.1l-2.1 1.6l0.7 2.5l-2.2-1.5l-2.2 1.5l0.7-2.5l-2.1-1.6l2.6-0.1zM439 97l0.9 2.5l2.6 0.1l-2.1 1.6l0.7 2.5l-2.2-1.5l-2.2 1.5l0.7-2.5l-2.1-1.6l2.6-0.1zM372.9 94.2l0.9 2.5l2.6 0.1l-2.1 1.6l0.7 2.5l-2.2-1.5l-2.2 1.5l0.7-2.5l-2.1-1.6l2.6-0.1zM391.3 115.7l0.9 2.5l2.6 0.1l-2.1 1.6l0.7 2.5l-2.2-1.5l-2.2 1.5l0.7-2.5l-2.1-1.6l2.6-0.1zM402.9 82.6l0.9 2.5l2.6 0.1l-2.1 1.6l0.7 2.5l-2.2-1.5l-2.2 1.5l0.7-2.5l-2.1-1.6l2.6-0.1zM377 75.1l0.9 2.5l2.6 0.1l-2.1 1.6l0.7 2.5l-2.2-1.5l-2.2 1.5l0.7-2.5l-2.1-1.6l2.6-0.1zM388.8 116.3l0.9 2.5l2.6 0.1l-2.1 1.6l0.7 2.5l-2.2-1.5l-2.2 1.5l0.7-2.5l-2.1-1.6l2.6-0.1zM386 111.3l0.9 2.5l2.6 0.1l-2.1 1.6l0.7 2.5l-2.2-1.5l-2.2 1.5l0.7-2.5l-2.1-1.6l2.6-0.1zM419.6 85.9l0.9 2.5l2.6 0.1l-2.1 1.6l0.7 2.5l-2.2-1.5l-2.2 1.5l0.7-2.5l-2.1-1.6l2.6-0.1zM406.8 98.4l0.9 2.5l2.6 0.1l-2.1 1.6l0.7 2.5l-2.2-1.5l-2.2 1.5l0.7-2.5l-2.1-1.6l2.6-0.1zM438.2 77.9l0.9 2.5l2.6 0.1l-2.1 1.6l0.7 2.5l-2.2-1.5l-2.2 1.5l0.7-2.5l-2.1-1.6l2.6-0.1zM424.7 74.7l0.9 2.5l2.6 0.1l-2.1 1.6l0.7 2.5l-2.2-1.5l-2.2 1.5l0.7-2.5l-2.1-1.6l2.6-0.1zM412.2 83.9l0.9 2.5l2.6 0.1l-2.1 1.6l0.7 2.5l-2.2-1.5l-2.2 1.5l0.7-2.5l-2.1-1.6l2.6-0.1zM409.4 87.4l0.9 2.5l2.6 0.1l-2.1 1.6l0.7 2.5l-2.2-1.5l-2.2 1.5l0.7-2.5l-2.1-1.6l2.6-0.1zM410.9 66.8l0.9 2.5l2.6 0.1l-2.1 1.6l0.7 2.5l-2.2-1.5l-2.2 1.5l0.7-2.5l-2.1-1.6l2.6-0.1zM442.1 111.2l0.9 2.5l2.6 0.1l-2.1 1.6l0.7 2.5l-2.2-1.5l-2.2 1.5l0.7-2.5l-2.1-1.6l2.6-0.1zM392.7 97.8l0.9 2.5l2.6 0.1l-2.1 1.6l0.7 2.5l-2.2-1.5l-2.2 1.5l0.7-2.5l-2.1-1.6l2.6-0.1zM423.4 121.7l0.9 2.5l2.6 0.1l-2.1 1.6l0.7 2.5l-2.2-1.5l-2.2 1.5l0.7-2.5l-2.1-1.6l2.6-0.1zM459.5 103.2l0.9 2.5l2.6 0.1l-2.1 1.6l0.7 2.5l-2.2-1.5l-2.2 1.5l0.7-2.5l-2.1-1.6l2.6-0.1zM404.2 111.7l0.9 2.5l2.6 0.1l-2.1 1.6l0.7 2.5l-2.2-1.5l-2.2 1.5l0.7-2.5l-2.1-1.6l2.6-0.1zM355.9 85.3l0.9 2.5l2.6 0.1l-2.1 1.6l0.7 2.5l-2.2-1.5l-2.2 1.5l0.7-2.5l-2.1-1.6l2.6-0.1zM419.2 78.5l0.9 2.5l2.6 0.1l-2.1 1.6l0.7 2.5l-2.2-1.5l-2.2 1.5l0.7-2.5l-2.1-1.6l2.6-0.1zM397.4 99.9l0.9 2.5l2.6 0.1l-2.1 1.6l0.7 2.5l-2.2-1.5l-2.2 1.5l0.7-2.5l-2.1-1.6l2.6-0.1zM372.4 100.4l0.9 2.5l2.6 0.1l-2.1 1.6l0.7 2.5l-2.2-1.5l-2.2 1.5l0.7-2.5l-2.1-1.6l2.6-0.1zM383.9 103.6l0.9 2.5l2.6 0.1l-2.1 1.6l0.7 2.5l-2.2-1.5l-2.2 1.5l0.7-2.5l-2.1-1.6l2.6-0.1zM457.6 113.3l0.9 2.5l2.6 0.1l-2.1 1.6l0.7 2.5l-2.2-1.5l-2.2 1.5l0.7-2.5l-2.1-1.6l2.6-0.1zM438 85.7l0.9 2.5l2.6 0.1l-2.1 1.6l0.7 2.5l-2.2-1.5l-2.2 1.5l0.7-2.5l-2.1-1.6l2.6-0.1zM447.8 96.4l0.9 2.5l2.6 0.1l-2.1 1.6l0.7 2.5l-2.2-1.5l-2.2 1.5l0.7-2.5l-2.1-1.6l2.6-0.1zM451.3 105.9l0.9 2.5l2.6 0.1l-2.1 1.6l0.7 2.5l-2.2-1.5l-2.2 1.5l0.7-2.5l-2.1-1.6l2.6-0.1zM419.1 108.4l0.9 2.5l2.6 0.1l-2.1 1.6l0.7 2.5l-2.2-1.5l-2.2 1.5l0.7-2.5l-2.1-1.6l2.6-0.1zM426.2 101.4l0.9 2.5l2.6 0.1l-2.1 1.6l0.7 2.5l-2.2-1.5l-2.2 1.5l0.7-2.5l-2.1-1.6l2.6-0.1zM393.2 71.1l0.9 2.5l2.6 0.1l-2.1 1.6l0.7 2.5l-2.2-1.5l-2.2 1.5l0.7-2.5l-2.1-1.6l2.6-0.1zM367.3 105.5l0.9 2.5l2.6 0.1l-2.1 1.6l0.7 2.5l-2.2-1.5l-2.2 1.5l0.7-2.5l-2.1-1.6l2.6-0.1zM412.2 127.9l0.9 2.5l2.6 0.1l-2.1 1.6l0.7 2.5l-2.2-1.5l-2.2 1.5l0.7-2.5l-2.1-1.6l2.6-0.1zM454.9 78.8l0.9 2.5l2.6 0.1l-2.1 1.6l0.7 2.5l-2.2-1.5l-2.2 1.5l0.7-2.5l-2.1-1.6l2.6-0.1zM359.1 69.3l0.9 2.5l2.6 0.1l-2.1 1.6l0.7 2.5l-2.2-1.5l-2.2 1.5l0.7-2.5l-2.1-1.6l2.6-0.1zM370 59.9l0.9 2.5l2.6 0.1l-2.1 1.6l0.7 2.5l-2.2-1.5l-2.2 1.5l0.7-2.5l-2.1-1.6l2.6-0.1zM458.7 120.7l0.9 2.5l2.6 0.1l-2.1 1.6l0.7 2.5l-2.2-1.5l-2.2 1.5l0.7-2.5l-2.1-1.6l2.6-0.1zM430.8 98.6l0.9 2.5l2.6 0.1l-2.1 1.6l0.7 2.5l-2.2-1.5l-2.2 1.5l0.7-2.5l-2.1-1.6l2.6-0.1zM406.8 76.7l0.9 2.5l2.6 0.1l-2.1 1.6l0.7 2.5l-2.2-1.5l-2.2 1.5l0.7-2.5l-2.1-1.6l2.6-0.1zM420 73.1l0.9 2.5l2.6 0.1l-2.1 1.6l0.7 2.5l-2.2-1.5l-2.2 1.5l0.7-2.5l-2.1-1.6l2.6-0.1zM435 84.9l0.9 2.5l2.6 0.1l-2.1 1.6l0.7 2.5l-2.2-1.5l-2.2 1.5l0.7-2.5l-2.1-1.6l2.6-0.1zM406 76.8l0.9 2.5l2.6 0.1l-2.1 1.6l0.7 2.5l-2.2-1.5l-2.2 1.5l0.7-2.5l-2.1-1.6l2.6-0.1zM406.5 82.2l0.9 2.5l2.6 0.1l-2.1 1.6l0.7 2.5l-2.2-1.5l-2.2 1.5l0.7-2.5l-2.1-1.6l2.6-0.1zM412.6 94.8l0.9 2.5l2.6 0.1l-2.1 1.6l0.7 2.5l-2.2-1.5l-2.2 1.5l0.7-2.5l-2.1-1.6l2.6-0.1zM385.3 113.6l0.9 2.5l2.6 0.1l-2.1 1.6l0.7 2.5l-2.2-1.5l-2.2 1.5l0.7-2.5l-2.1-1.6l2.6-0.1zM399.7 92.1l0.9 2.5l2.6 0.1l-2.1 1.6l0.7 2.5l-2.2-1.5l-2.2 1.5l0.7-2.5l-2.1-1.6l2.6-0.1zM391.5 107.6l0.9 2.5l2.6 0.1l-2.1 1.6l0.7 2.5l-2.2-1.5l-2.2 1.5l0.7-2.5l-2.1-1.6l2.6-0.1zM430 68.2l0.9 2.5l2.6 0.1l-2.1 1.6l0.7 2.5l-2.2-1.5l-2.2 1.5l0.7-2.5l-2.1-1.6l2.6-0.1zM407.7 102.5l0.9 2.5l2.6 0.1l-2.1 1.6l0.7 2.5l-2.2-1.5l-2.2 1.5l0.7-2.5l-2.1-1.6l2.6-0.1zM442.1 107.2l0.9 2.5l2.6 0.1l-2.1 1.6l0.7 2.5l-2.2-1.5l-2.2 1.5l0.7-2.5l-2.1-1.6l2.6-0.1zM391.5 98.1l0.9 2.5l2.6 0.1l-2.1 1.6l0.7 2.5l-2.2-1.5l-2.2 1.5l0.7-2.5l-2.1-1.6l2.6-0.1zM417.2 111.8l0.9 2.5l2.6 0.1l-2.1 1.6l0.7 2.5l-2.2-1.5l-2.2 1.5l0.7-2.5l-2.1-1.6l2.6-0.1zM359.7 93.1l0.9 2.5l2.6 0.1l-2.1 1.6l0.7 2.5l-2.2-1.5l-2.2 1.5l0.7-2.5l-2.1-1.6l2.6-0.1zM414.1 107.3l0.9 2.5l2.6 0.1l-2.1 1.6l0.7 2.5l-2.2-1.5l-2.2 1.5l0.7-2.5l-2.1-1.6l2.6-0.1zM409 96.5l0.9 2.5l2.6 0.1l-2.1 1.6l0.7 2.5l-2.2-1.5l-2.2 1.5l0.7-2.5l-2.1-1.6l2.6-0.1zM381.1 87.6l0.9 2.5l2.6 0.1l-2.1 1.6l0.7 2.5l-2.2-1.5l-2.2 1.5l0.7-2.5l-2.1-1.6l2.6-0.1zM398 77.2l0.9 2.5l2.6 0.1l-2.1 1.6l0.7 2.5l-2.2-1.5l-2.2 1.5l0.7-2.5l-2.1-1.6l2.6-0.1zM432.7 79.4l0.9 2.5l2.6 0.1l-2.1 1.6l0.7 2.5l-2.2-1.5l-2.2 1.5l0.7-2.5l-2.1-1.6l2.6-0.1zM406.4 104.9l0.9 2.5l2.6 0.1l-2.1 1.6l0.7 2.5l-2.2-1.5l-2.2 1.5l0.7-2.5l-2.1-1.6l2.6-0.1zM388.7 109.7l0.9 2.5l2.6 0.1l-2.1 1.6l0.7 2.5l-2.2-1.5l-2.2 1.5l0.7-2.5l-2.1-1.6l2.6-0.1zM426.9 108l0.9 2.5l2.6 0.1l-2.1 1.6l0.7 2.5l-2.2-1.5l-2.2 1.5l0.7-2.5l-2.1-1.6l2.6-0.1zM390.7 71.5l0.9 2.5l2.6 0.1l-2.1 1.6l0.7 2.5l-2.2-1.5l-2.2 1.5l0.7-2.5l-2.1-1.6l2.6-0.1zM409.8 97.3l0.9 2.5l2.6 0.1l-2.1 1.6l0.7 2.5l-2.2-1.5l-2.2 1.5l0.7-2.5l-2.1-1.6l2.6-0.1zM376.7 62.5l0.9 2.5l2.6 0.1l-2.1 1.6l0.7 2.5l-2.2-1.5l-2.2 1.5l0.7-2.5l-2.1-1.6l2.6-0.1zM410.3 92.8l0.9 2.5l2.6 0.1l-2.1 1.6l0.7 2.5l-2.2-1.5l-2.2 1.5l0.7-2.5l-2.1-1.6l2.6-0.1zM405.1 125.7l0.9 2.5l2.6 0.1l-2.1 1.6l0.7 2.5l-2.2-1.5l-2.2 1.5l0.7-2.5l-2.1-1.6l2.6-0.1zM464.9 114l0.9 2.5l2.6 0.1l-2.1 1.6l0.7 2.5l-2.2-1.5l-2.2 1.5l0.7-2.5l-2.1-1.6l2.6-0.1zM458 90.1l0.9 2.5l2.6 0.1l-2.1 1.6l0.7 2.5l-2.2-1.5l-2.2 1.5l0.7-2.5l-2.1-1.6l2.6-0.1zM417.8 113.1l0.9 2.5l2.6 0.1l-2.1 1.6l0.7 2.5l-2.2-1.5l-2.2 1.5l0.7-2.5l-2.1-1.6l2.6-0.1zM399.8 88l0.9 2.5l2.6 0.1l-2.1 1.6l0.7 2.5l-2.2-1.5l-2.2 1.5l0.7-2.5l-2.1-1.6l2.6-0.1zM396.6 118.6l0.9 2.5l2.6 0.1l-2.1 1.6l0.7 2.5l-2.2-1.5l-2.2 1.5l0.7-2.5l-2.1-1.6l2.6-0.1zM427.5 117l0.9 2.5l2.6 0.1l-2.1 1.6l0.7 2.5l-2.2-1.5l-2.2 1.5l0.7-2.5l-2.1-1.6l2.6-0.1zM419.9 84.1l0.9 2.5l2.6 0.1l-2.1 1.6l0.7 2.5l-2.2-1.5l-2.2 1.5l0.7-2.5l-2.1-1.6l2.6-0.1zM398.9 83.3l0.9 2.5l2.6 0.1l-2.1 1.6l0.7 2.5l-2.2-1.5l-2.2 1.5l0.7-2.5l-2.1-1.6l2.6-0.1zM420 96.8l0.9 2.5l2.6 0.1l-2.1 1.6l0.7 2.5l-2.2-1.5l-2.2 1.5l0.7-2.5l-2.1-1.6l2.6-0.1zM399.4 69.7l0.9 2.5l2.6 0.1l-2.1 1.6l0.7 2.5l-2.2-1.5l-2.2 1.5l0.7-2.5l-2.1-1.6l2.6-0.1zM477.8 96.4l0.9 2.5l2.6 0.1l-2.1 1.6l0.7 2.5l-2.2-1.5l-2.2 1.5l0.7-2.5l-2.1-1.6l2.6-0.1zM455.1 80.5l0.9 2.5l2.6 0.1l-2.1 1.6l0.7 2.5l-2.2-1.5l-2.2 1.5l0.7-2.5l-2.1-1.6l2.6-0.1zM410.4 96.8l0.9 2.5l2.6 0.1l-2.1 1.6l0.7 2.5l-2.2-1.5l-2.2 1.5l0.7-2.5l-2.1-1.6l2.6-0.1zM399 66.1l0.9 2.5l2.6 0.1l-2.1 1.6l0.7 2.5l-2.2-1.5l-2.2 1.5l0.7-2.5l-2.1-1.6l2.6-0.1zM417.7 102.2l0.9 2.5l2.6 0.1l-2.1 1.6l0.7 2.5l-2.2-1.5l-2.2 1.5l0.7-2.5l-2.1-1.6l2.6-0.1zM402.6 66.3l0.9 2.5l2.6 0.1l-2.1 1.6l0.7 2.5l-2.2-1.5l-2.2 1.5l0.7-2.5l-2.1-1.6l2.6-0.1zM413.5 121l0.9 2.5l2.6 0.1l-2.1 1.6l0.7 2.5l-2.2-1.5l-2.2 1.5l0.7-2.5l-2.1-1.6l2.6-0.1zM389.8 79.1l0.9 2.5l2.6 0.1l-2.1 1.6l0.7 2.5l-2.2-1.5l-2.2 1.5l0.7-2.5l-2.1-1.6l2.6-0.1zM372.9 90.8l0.9 2.5l2.6 0.1l-2.1 1.6l0.7 2.5l-2.2-1.5l-2.2 1.5l0.7-2.5l-2.1-1.6l2.6-0.1zM383.8 95l0.9 2.5l2.6 0.1l-2.1 1.6l0.7 2.5l-2.2-1.5l-2.2 1.5l0.7-2.5l-2.1-1.6l2.6-0.1zM409.5 101.8l0.9 2.5l2.6 0.1l-2.1 1.6l0.7 2.5l-2.2-1.5l-2.2 1.5l0.7-2.5l-2.1-1.6l2.6-0.1zM442.4 115.9l0.9 2.5l2.6 0.1l-2.1 1.6l0.7 2.5l-2.2-1.5l-2.2 1.5l0.7-2.5l-2.1-1.6l2.6-0.1zM443.9 77.9l0.9 2.5l2.6 0.1l-2.1 1.6l0.7 2.5l-2.2-1.5l-2.2 1.5l0.7-2.5l-2.1-1.6l2.6-0.1zM416.2 114.3l0.9 2.5l2.6 0.1l-2.1 1.6l0.7 2.5l-2.2-1.5l-2.2 1.5l0.7-2.5l-2.1-1.6l2.6-0.1zM383.1 77.4l0.9 2.5l2.6 0.1l-2.1 1.6l0.7 2.5l-2.2-1.5l-2.2 1.5l0.7-2.5l-2.1-1.6l2.6-0.1zM409.3 109.8l0.9 2.5l2.6 0.1l-2.1 1.6l0.7 2.5l-2.2-1.5l-2.2 1.5l0.7-2.5l-2.1-1.6l2.6-0.1zM426.7 88.6l0.9 2.5l2.6 0.1l-2.1 1.6l0.7 2.5l-2.2-1.5l-2.2 1.5l0.7-2.5l-2.1-1.6l2.6-0.1zM454.7 91.3l0.9 2.5l2.6 0.1l-2.1 1.6l0.7 2.5l-2.2-1.5l-2.2 1.5l0.7-2.5l-2.1-1.6l2.6-0.1zM444.4 98.3l0.9 2.5l2.6 0.1l-2.1 1.6l0.7 2.5l-2.2-1.5l-2.2 1.5l0.7-2.5l-2.1-1.6l2.6-0.1zM404.5 104.5l0.9 2.5l2.6 0.1l-2.1 1.6l0.7 2.5l-2.2-1.5l-2.2 1.5l0.7-2.5l-2.1-1.6l2.6-0.1zM387.3 97.4l0.9 2.5l2.6 0.1l-2.1 1.6l0.7 2.5l-2.2-1.5l-2.2 1.5l0.7-2.5l-2.1-1.6l2.6-0.1zM423.1 117.7l0.9 2.5l2.6 0.1l-2.1 1.6l0.7 2.5l-2.2-1.5l-2.2 1.5l0.7-2.5l-2.1-1.6l2.6-0.1zM460.2 73l0.9 2.5l2.6 0.1l-2.1 1.6l0.7 2.5l-2.2-1.5l-2.2 1.5l0.7-2.5l-2.1-1.6l2.6-0.1zM449.8 110.4l0.9 2.5l2.6 0.1l-2.1 1.6l0.7 2.5l-2.2-1.5l-2.2 1.5l0.7-2.5l-2.1-1.6l2.6-0.1zM470.9 103.3l0.9 2.5l2.6 0.1l-2.1 1.6l0.7 2.5l-2.2-1.5l-2.2 1.5l0.7-2.5l-2.1-1.6l2.6-0.1zM431.1 91.3l0.9 2.5l2.6 0.1l-2.1 1.6l0.7 2.5l-2.2-1.5l-2.2 1.5l0.7-2.5l-2.1-1.6l2.6-0.1zM388.5 98.4l0.9 2.5l2.6 0.1l-2.1 1.6l0.7 2.5l-2.2-1.5l-2.2 1.5l0.7-2.5l-2.1-1.6l2.6-0.1zM426.3 75.7l0.9 2.5l2.6 0.1l-2.1 1.6l0.7 2.5l-2.2-1.5l-2.2 1.5l0.7-2.5l-2.1-1.6l2.6-0.1zM380.8 99.6l0.9 2.5l2.6 0.1l-2.1 1.6l0.7 2.5l-2.2-1.5l-2.2 1.5l0.7-2.5l-2.1-1.6l2.6-0.1zM423.5 67.2l0.9 2.5l2.6 0.1l-2.1 1.6l0.7 2.5l-2.2-1.5l-2.2 1.5l0.7-2.5l-2.1-1.6l2.6-0.1zM407.3 101l0.9 2.5l2.6 0.1l-2.1 1.6l0.7 2.5l-2.2-1.5l-2.2 1.5l0.7-2.5l-2.1-1.6l2.6-0.1zM407.7 98.9l0.9 2.5l2.6 0.1l-2.1 1.6l0.7 2.5l-2.2-1.5l-2.2 1.5l0.7-2.5l-2.1-1.6l2.6-0.1zM411.9 79.9l0.9 2.5l2.6 0.1l-2.1 1.6l0.7 2.5l-2.2-1.5l-2.2 1.5l0.7-2.5l-2.1-1.6l2.6-0.1zM422.3 123.9l0.9 2.5l2.6 0.1l-2.1 1.6l0.7 2.5l-2.2-1.5l-2.2 1.5l0.7-2.5l-2.1-1.6l2.6-0.1zM393.9 115l0.9 2.5l2.6 0.1l-2.1 1.6l0.7 2.5l-2.2-1.5l-2.2 1.5l0.7-2.5l-2.1-1.6l2.6-0.1zM382.4 78.9l0.9 2.5l2.6 0.1l-2.1 1.6l0.7 2.5l-2.2-1.5l-2.2 1.5l0.7-2.5l-2.1-1.6l2.6-0.1zM472.1 99.7l0.9 2.5l2.6 0.1l-2.1 1.6l0.7 2.5l-2.2-1.5l-2.2 1.5l0.7-2.5l-2.1-1.6l2.6-0.1zM419.1 124l0.9 2.5l2.6 0.1l-2.1 1.6l0.7 2.5l-2.2-1.5l-2.2 1.5l0.7-2.5l-2.1-1.6l2.6-0.1zM378.3 72.1l0.9 2.5l2.6 0.1l-2.1 1.6l0.7 2.5l-2.2-1.5l-2.2 1.5l0.7-2.5l-2.1-1.6l2.6-0.1zM380.8 102.5l0.9 2.5l2.6 0.1l-2.1 1.6l0.7 2.5l-2.2-1.5l-2.2 1.5l0.7-2.5l-2.1-1.6l2.6-0.1zM458 115.4l0.9 2.5l2.6 0.1l-2.1 1.6l0.7 2.5l-2.2-1.5l-2.2 1.5l0.7-2.5l-2.1-1.6l2.6-0.1zM399.4 85.3l0.9 2.5l2.6 0.1l-2.1 1.6l0.7 2.5l-2.2-1.5l-2.2 1.5l0.7-2.5l-2.1-1.6l2.6-0.1zM421.4 69.7l0.9 2.5l2.6 0.1l-2.1 1.6l0.7 2.5l-2.2-1.5l-2.2 1.5l0.7-2.5l-2.1-1.6l2.6-0.1zM420.7 130.6l0.9 2.5l2.6 0.1l-2.1 1.6l0.7 2.5l-2.2-1.5l-2.2 1.5l0.7-2.5l-2.1-1.6l2.6-0.1zM451.6 92.8l0.9 2.5l2.6 0.1l-2.1 1.6l0.7 2.5l-2.2-1.5l-2.2 1.5l0.7-2.5l-2.1-1.6l2.6-0.1zM429.9 86.6l0.9 2.5l2.6 0.1l-2.1 1.6l0.7 2.5l-2.2-1.5l-2.2 1.5l0.7-2.5l-2.1-1.6l2.6-0.1zM375.9 65l0.9 2.5l2.6 0.1l-2.1 1.6l0.7 2.5l-2.2-1.5l-2.2 1.5l0.7-2.5l-2.1-1.6l2.6-0.1zM375.7 70.1l0.9 2.5l2.6 0.1l-2.1 1.6l0.7 2.5l-2.2-1.5l-2.2 1.5l0.7-2.5l-2.1-1.6l2.6-0.1zM414.8 67.8l0.9 2.5l2.6 0.1l-2.1 1.6l0.7 2.5l-2.2-1.5l-2.2 1.5l0.7-2.5l-2.1-1.6l2.6-0.1zM378.3 76l0.9 2.5l2.6 0.1l-2.1 1.6l0.7 2.5l-2.2-1.5l-2.2 1.5l0.7-2.5l-2.1-1.6l2.6-0.1zM374.2 113.3l0.9 2.5l2.6 0.1l-2.1 1.6l0.7 2.5l-2.2-1.5l-2.2 1.5l0.7-2.5l-2.1-1.6l2.6-0.1zM388.6 99.8l0.9 2.5l2.6 0.1l-2.1 1.6l0.7 2.5l-2.2-1.5l-2.2 1.5l0.7-2.5l-2.1-1.6l2.6-0.1zM420.6 105.8l0.9 2.5l2.6 0.1l-2.1 1.6l0.7 2.5l-2.2-1.5l-2.2 1.5l0.7-2.5l-2.1-1.6l2.6-0.1zM445.9 128.9l0.9 2.5l2.6 0.1l-2.1 1.6l0.7 2.5l-2.2-1.5l-2.2 1.5l0.7-2.5l-2.1-1.6l2.6-0.1zM435.8 77.4l0.9 2.5l2.6 0.1l-2.1 1.6l0.7 2.5l-2.2-1.5l-2.2 1.5l0.7-2.5l-2.1-1.6l2.6-0.1zM402.8 77.9l0.9 2.5l2.6 0.1l-2.1 1.6l0.7 2.5l-2.2-1.5l-2.2 1.5l0.7-2.5l-2.1-1.6l2.6-0.1zM429.3 103.6l0.9 2.5l2.6 0.1l-2.1 1.6l0.7 2.5l-2.2-1.5l-2.2 1.5l0.7-2.5l-2.1-1.6l2.6-0.1zM388.6 98.1l0.9 2.5l2.6 0.1l-2.1 1.6l0.7 2.5l-2.2-1.5l-2.2 1.5l0.7-2.5l-2.1-1.6l2.6-0.1zM454.9 79.3l0.9 2.5l2.6 0.1l-2.1 1.6l0.7 2.5l-2.2-1.5l-2.2 1.5l0.7-2.5l-2.1-1.6l2.6-0.1zM452.7 77.4l0.9 2.5l2.6 0.1l-2.1 1.6l0.7 2.5l-2.2-1.5l-2.2 1.5l0.7-2.5l-2.1-1.6l2.6-0.1zM400.8 107l0.9 2.5l2.6 0.1l-2.1 1.6l0.7 2.5l-2.2-1.5l-2.2 1.5l0.7-2.5l-2.1-1.6l2.6-0.1zM412.1 99.1l0.9 2.5l2.6 0.1l-2.1 1.6l0.7 2.5l-2.2-1.5l-2.2 1.5l0.7-2.5l-2.1-1.6l2.6-0.1zM381.3 104.1l0.9 2.5l2.6 0.1l-2.1 1.6l0.7 2.5l-2.2-1.5l-2.2 1.5l0.7-2.5l-2.1-1.6l2.6-0.1zM375.9 107.6l0.9 2.5l2.6 0.1l-2.1 1.6l0.7 2.5l-2.2-1.5l-2.2 1.5l0.7-2.5l-2.1-1.6l2.6-0.1zM367.2 112.6l0.9 2.5l2.6 0.1l-2.1 1.6l0.7 2.5l-2.2-1.5l-2.2 1.5l0.7-2.5l-2.1-1.6l2.6-0.1zM406.6 104.3l0.9 2.5l2.6 0.1l-2.1 1.6l0.7 2.5l-2.2-1.5l-2.2 1.5l0.7-2.5l-2.1-1.6l2.6-0.1zM406.5 124.9l0.9 2.5l2.6 0.1l-2.1 1.6l0.7 2.5l-2.2-1.5l-2.2 1.5l0.7-2.5l-2.1-1.6l2.6-0.1zM389.6 97.2l0.9 2.5l2.6 0.1l-2.1 1.6l0.7 2.5l-2.2-1.5l-2.2 1.5l0.7-2.5l-2.1-1.6l2.6-0.1zM378 111.4l0.9 2.5l2.6 0.1l-2.1 1.6l0.7 2.5l-2.2-1.5l-2.2 1.5l0.7-2.5l-2.1-1.6l2.6-0.1zM406.8 90.7l0.9 2.5l2.6 0.1l-2.1 1.6l0.7 2.5l-2.2-1.5l-2.2 1.5l0.7-2.5l-2.1-1.6l2.6-0.1zM458.3 99.2l0.9 2.5l2.6 0.1l-2.1 1.6l0.7 2.5l-2.2-1.5l-2.2 1.5l0.7-2.5l-2.1-1.6l2.6-0.1zM439.4 105.1l0.9 2.5l2.6 0.1l-2.1 1.6l0.7 2.5l-2.2-1.5l-2.2 1.5l0.7-2.5l-2.1-1.6l2.6-0.1zM370.8 62.2l0.9 2.5l2.6 0.1l-2.1 1.6l0.7 2.5l-2.2-1.5l-2.2 1.5l0.7-2.5l-2.1-1.6l2.6-0.1zM416 67.8l0.9 2.5l2.6 0.1l-2.1 1.6l0.7 2.5l-2.2-1.5l-2.2 1.5l0.7-2.5l-2.1-1.6l2.6-0.1zM426 95l0.9 2.5l2.6 0.1l-2.1 1.6l0.7 2.5l-2.2-1.5l-2.2 1.5l0.7-2.5l-2.1-1.6l2.6-0.1zM453.1 116.8l0.9 2.5l2.6 0.1l-2.1 1.6l0.7 2.5l-2.2-1.5l-2.2 1.5l0.7-2.5l-2.1-1.6l2.6-0.1zM390.1 85.7l0.9 2.5l2.6 0.1l-2.1 1.6l0.7 2.5l-2.2-1.5l-2.2 1.5l0.7-2.5l-2.1-1.6l2.6-0.1zM445 125.7l0.9 2.5l2.6 0.1l-2.1 1.6l0.7 2.5l-2.2-1.5l-2.2 1.5l0.7-2.5l-2.1-1.6l2.6-0.1zM376.5 77.7l0.9 2.5l2.6 0.1l-2.1 1.6l0.7 2.5l-2.2-1.5l-2.2 1.5l0.7-2.5l-2.1-1.6l2.6-0.1zM394 75.4l0.9 2.5l2.6 0.1l-2.1 1.6l0.7 2.5l-2.2-1.5l-2.2 1.5l0.7-2.5l-2.1-1.6l2.6-0.1zM376.8 88.5l0.9 2.5l2.6 0.1l-2.1 1.6l0.7 2.5l-2.2-1.5l-2.2 1.5l0.7-2.5l-2.1-1.6l2.6-0.1zM402.1 111.4l0.9 2.5l2.6 0.1l-2.1 1.6l0.7 2.5l-2.2-1.5l-2.2 1.5l0.7-2.5l-2.1-1.6l2.6-0.1zM381.8 75.3l0.9 2.5l2.6 0.1l-2.1 1.6l0.7 2.5l-2.2-1.5l-2.2 1.5l0.7-2.5l-2.1-1.6l2.6-0.1zM486.6 94.2l0.9 2.5l2.6 0.1l-2.1 1.6l0.7 2.5l-2.2-1.5l-2.2 1.5l0.7-2.5l-2.1-1.6l2.6-0.1zM430.9 119.8l0.9 2.5l2.6 0.1l-2.1 1.6l0.7 2.5l-2.2-1.5l-2.2 1.5l0.7-2.5l-2.1-1.6l2.6-0.1zM426.4 68l0.9 2.5l2.6 0.1l-2.1 1.6l0.7 2.5l-2.2-1.5l-2.2 1.5l0.7-2.5l-2.1-1.6l2.6-0.1zM378 68.1l0.9 2.5l2.6 0.1l-2.1 1.6l0.7 2.5l-2.2-1.5l-2.2 1.5l0.7-2.5l-2.1-1.6l2.6-0.1zM453.2 86.2l0.9 2.5l2.6 0.1l-2.1 1.6l0.7 2.5l-2.2-1.5l-2.2 1.5l0.7-2.5l-2.1-1.6l2.6-0.1zM416.2 128l0.9 2.5l2.6 0.1l-2.1 1.6l0.7 2.5l-2.2-1.5l-2.2 1.5l0.7-2.5l-2.1-1.6l2.6-0.1zM441 90l0.9 2.5l2.6 0.1l-2.1 1.6l0.7 2.5l-2.2-1.5l-2.2 1.5l0.7-2.5l-2.1-1.6l2.6-0.1zM383.6 80.9l0.9 2.5l2.6 0.1l-2.1 1.6l0.7 2.5l-2.2-1.5l-2.2 1.5l0.7-2.5l-2.1-1.6l2.6-0.1zM385.4 58.8l0.9 2.5l2.6 0.1l-2.1 1.6l0.7 2.5l-2.2-1.5l-2.2 1.5l0.7-2.5l-2.1-1.6l2.6-0.1zM422.4 110.8l0.9 2.5l2.6 0.1l-2.1 1.6l0.7 2.5l-2.2-1.5l-2.2 1.5l0.7-2.5l-2.1-1.6l2.6-0.1zM428.1 102.6l0.9 2.5l2.6 0.1l-2.1 1.6l0.7 2.5l-2.2-1.5l-2.2 1.5l0.7-2.5l-2.1-1.6l2.6-0.1zM444.2 101.2l0.9 2.5l2.6 0.1l-2.1 1.6l0.7 2.5l-2.2-1.5l-2.2 1.5l0.7-2.5l-2.1-1.6l2.6-0.1zM396.8 87l0.9 2.5l2.6 0.1l-2.1 1.6l0.7 2.5l-2.2-1.5l-2.2 1.5l0.7-2.5l-2.1-1.6l2.6-0.1zM401.2 112.1l0.9 2.5l2.6 0.1l-2.1 1.6l0.7 2.5l-2.2-1.5l-2.2 1.5l0.7-2.5l-2.1-1.6l2.6-0.1zM369.9 62.8l0.9 2.5l2.6 0.1l-2.1 1.6l0.7 2.5l-2.2-1.5l-2.2 1.5l0.7-2.5l-2.1-1.6l2.6-0.1zM432 88.1l0.9 2.5l2.6 0.1l-2.1 1.6l0.7 2.5l-2.2-1.5l-2.2 1.5l0.7-2.5l-2.1-1.6l2.6-0.1zM446.6 95.1l0.9 2.5l2.6 0.1l-2.1 1.6l0.7 2.5l-2.2-1.5l-2.2 1.5l0.7-2.5l-2.1-1.6l2.6-0.1zM429.1 104l0.9 2.5l2.6 0.1l-2.1 1.6l0.7 2.5l-2.2-1.5l-2.2 1.5l0.7-2.5l-2.1-1.6l2.6-0.1zM428.3 102.4l0.9 2.5l2.6 0.1l-2.1 1.6l0.7 2.5l-2.2-1.5l-2.2 1.5l0.7-2.5l-2.1-1.6l2.6-0.1zM395.5 78.9l0.9 2.5l2.6 0.1l-2.1 1.6l0.7 2.5l-2.2-1.5l-2.2 1.5l0.7-2.5l-2.1-1.6l2.6-0.1zM438.1 105.2l0.9 2.5l2.6 0.1l-2.1 1.6l0.7 2.5l-2.2-1.5l-2.2 1.5l0.7-2.5l-2.1-1.6l2.6-0.1zM393.6 74.6l0.9 2.5l2.6 0.1l-2.1 1.6l0.7 2.5l-2.2-1.5l-2.2 1.5l0.7-2.5l-2.1-1.6l2.6-0.1zM433.3 83.4l0.9 2.5l2.6 0.1l-2.1 1.6l0.7 2.5l-2.2-1.5l-2.2 1.5l0.7-2.5l-2.1-1.6l2.6-0.1zM361.1 97.1l0.9 2.5l2.6 0.1l-2.1 1.6l0.7 2.5l-2.2-1.5l-2.2 1.5l0.7-2.5l-2.1-1.6l2.6-0.1zM388 83.2l0.9 2.5l2.6 0.1l-2.1 1.6l0.7 2.5l-2.2-1.5l-2.2 1.5l0.7-2.5l-2.1-1.6l2.6-0.1zM399.6 87.8l0.9 2.5l2.6 0.1l-2.1 1.6l0.7 2.5l-2.2-1.5l-2.2 1.5l0.7-2.5l-2.1-1.6l2.6-0.1zM399.4 76l0.9 2.5l2.6 0.1l-2.1 1.6l0.7 2.5l-2.2-1.5l-2.2 1.5l0.7-2.5l-2.1-1.6l2.6-0.1zM400.3 83.7l0.9 2.5l2.6 0.1l-2.1 1.6l0.7 2.5l-2.2-1.5l-2.2 1.5l0.7-2.5l-2.1-1.6l2.6-0.1zM443.4 122l0.9 2.5l2.6 0.1l-2.1 1.6l0.7 2.5l-2.2-1.5l-2.2 1.5l0.7-2.5l-2.1-1.6l2.6-0.1zM366.1 70.3l0.9 2.5l2.6 0.1l-2.1 1.6l0.7 2.5l-2.2-1.5l-2.2 1.5l0.7-2.5l-2.1-1.6l2.6-0.1zM422.6 105.3l0.9 2.5l2.6 0.1l-2.1 1.6l0.7 2.5l-2.2-1.5l-2.2 1.5l0.7-2.5l-2.1-1.6l2.6-0.1zM407.8 73.3l0.9 2.5l2.6 0.1l-2.1 1.6l0.7 2.5l-2.2-1.5l-2.2 1.5l0.7-2.5l-2.1-1.6l2.6-0.1zM383.6 80.4l0.9 2.5l2.6 0.1l-2.1 1.6l0.7 2.5l-2.2-1.5l-2.2 1.5l0.7-2.5l-2.1-1.6l2.6-0.1zM437.1 87.8l0.9 2.5l2.6 0.1l-2.1 1.6l0.7 2.5l-2.2-1.5l-2.2 1.5l0.7-2.5l-2.1-1.6l2.6-0.1zM374.6 71.2l0.9 2.5l2.6 0.1l-2.1 1.6l0.7 2.5l-2.2-1.5l-2.2 1.5l0.7-2.5l-2.1-1.6l2.6-0.1zM435 89.5l0.9 2.5l2.6 0.1l-2.1 1.6l0.7 2.5l-2.2-1.5l-2.2 1.5l0.7-2.5l-2.1-1.6l2.6-0.1zM419.1 97.2l0.9 2.5l2.6 0.1l-2.1 1.6l0.7 2.5l-2.2-1.5l-2.2 1.5l0.7-2.5l-2.1-1.6l2.6-0.1zM367.4 95.1l0.9 2.5l2.6 0.1l-2.1 1.6l0.7 2.5l-2.2-1.5l-2.2 1.5l0.7-2.5l-2.1-1.6l2.6-0.1zM412.3 111.7l0.9 2.5l2.6 0.1l-2.1 1.6l0.7 2.5l-2.2-1.5l-2.2 1.5l0.7-2.5l-2.1-1.6l2.6-0.1zM456.5 89.8l0.9 2.5l2.6 0.1l-2.1 1.6l0.7 2.5l-2.2-1.5l-2.2 1.5l0.7-2.5l-2.1-1.6l2.6-0.1zM429.3 113.9l0.9 2.5l2.6 0.1l-2.1 1.6l0.7 2.5l-2.2-1.5l-2.2 1.5l0.7-2.5l-2.1-1.6l2.6-0.1zM379 101.5l0.9 2.5l2.6 0.1l-2.1 1.6l0.7 2.5l-2.2-1.5l-2.2 1.5l0.7-2.5l-2.1-1.6l2.6-0.1zM371.8 87.6l0.9 2.5l2.6 0.1l-2.1 1.6l0.7 2.5l-2.2-1.5l-2.2 1.5l0.7-2.5l-2.1-1.6l2.6-0.1zM425.6 70.4l0.9 2.5l2.6 0.1l-2.1 1.6l0.7 2.5l-2.2-1.5l-2.2 1.5l0.7-2.5l-2.1-1.6l2.6-0.1zM470 90.6l0.9 2.5l2.6 0.1l-2.1 1.6l0.7 2.5l-2.2-1.5l-2.2 1.5l0.7-2.5l-2.1-1.6l2.6-0.1zM403.2 85.4l0.9 2.5l2.6 0.1l-2.1 1.6l0.7 2.5l-2.2-1.5l-2.2 1.5l0.7-2.5l-2.1-1.6l2.6-0.1zM411.7 114.3l0.9 2.5l2.6 0.1l-2.1 1.6l0.7 2.5l-2.2-1.5l-2.2 1.5l0.7-2.5l-2.1-1.6l2.6-0.1zM402.3 113.8l0.9 2.5l2.6 0.1l-2.1 1.6l0.7 2.5l-2.2-1.5l-2.2 1.5l0.7-2.5l-2.1-1.6l2.6-0.1zM469.3 102.5l0.9 2.5l2.6 0.1l-2.1 1.6l0.7 2.5l-2.2-1.5l-2.2 1.5l0.7-2.5l-2.1-1.6l2.6-0.1zM378.2 88.4l0.9 2.5l2.6 0.1l-2.1 1.6l0.7 2.5l-2.2-1.5l-2.2 1.5l0.7-2.5l-2.1-1.6l2.6-0.1zM373 68.9l0.9 2.5l2.6 0.1l-2.1 1.6l0.7 2.5l-2.2-1.5l-2.2 1.5l0.7-2.5l-2.1-1.6l2.6-0.1zM407.1 110.4l0.9 2.5l2.6 0.1l-2.1 1.6l0.7 2.5l-2.2-1.5l-2.2 1.5l0.7-2.5l-2.1-1.6l2.6-0.1zM425.2 103.4l0.9 2.5l2.6 0.1l-2.1 1.6l0.7 2.5l-2.2-1.5l-2.2 1.5l0.7-2.5l-2.1-1.6l2.6-0.1zM399.9 72.5l0.9 2.5l2.6 0.1l-2.1 1.6l0.7 2.5l-2.2-1.5l-2.2 1.5l0.7-2.5l-2.1-1.6l2.6-0.1zM413.4 66.7l0.9 2.5l2.6 0.1l-2.1 1.6l0.7 2.5l-2.2-1.5l-2.2 1.5l0.7-2.5l-2.1-1.6l2.6-0.1zM384.7 116l0.9 2.5l2.6 0.1l-2.1 1.6l0.7 2.5l-2.2-1.5l-2.2 1.5l0.7-2.5l-2.1-1.6l2.6-0.1zM478.7 97.6l0.9 2.5l2.6 0.1l-2.1 1.6l0.7 2.5l-2.2-1.5l-2.2 1.5l0.7-2.5l-2.1-1.6l2.6-0.1zM378.7 60.8l0.9 2.5l2.6 0.1l-2.1 1.6l0.7 2.5l-2.2-1.5l-2.2 1.5l0.7-2.5l-2.1-1.6l2.6-0.1zM400.3 85l0.9 2.5l2.6 0.1l-2.1 1.6l0.7 2.5l-2.2-1.5l-2.2 1.5l0.7-2.5l-2.1-1.6l2.6-0.1zM452.6 106.6l0.9 2.5l2.6 0.1l-2.1 1.6l0.7 2.5l-2.2-1.5l-2.2 1.5l0.7-2.5l-2.1-1.6l2.6-0.1zM431.9 102.2l0.9 2.5l2.6 0.1l-2.1 1.6l0.7 2.5l-2.2-1.5l-2.2 1.5l0.7-2.5l-2.1-1.6l2.6-0.1zM396.8 72.5l0.9 2.5l2.6 0.1l-2.1 1.6l0.7 2.5l-2.2-1.5l-2.2 1.5l0.7-2.5l-2.1-1.6l2.6-0.1zM430.8 92.8l0.9 2.5l2.6 0.1l-2.1 1.6l0.7 2.5l-2.2-1.5l-2.2 1.5l0.7-2.5l-2.1-1.6l2.6-0.1zM461.6 98.5l0.9 2.5l2.6 0.1l-2.1 1.6l0.7 2.5l-2.2-1.5l-2.2 1.5l0.7-2.5l-2.1-1.6l2.6-0.1zM434 128.4l0.9 2.5l2.6 0.1l-2.1 1.6l0.7 2.5l-2.2-1.5l-2.2 1.5l0.7-2.5l-2.1-1.6l2.6-0.1zM411.1 112.7l0.9 2.5l2.6 0.1l-2.1 1.6l0.7 2.5l-2.2-1.5l-2.2 1.5l0.7-2.5l-2.1-1.6l2.6-0.1zM427.5 100.4l0.9 2.5l2.6 0.1l-2.1 1.6l0.7 2.5l-2.2-1.5l-2.2 1.5l0.7-2.5l-2.1-1.6l2.6-0.1zM418.3 74.6l0.9 2.5l2.6 0.1l-2.1 1.6l0.7 2.5l-2.2-1.5l-2.2 1.5l0.7-2.5l-2.1-1.6l2.6-0.1zM419.8 79.1l0.9 2.5l2.6 0.1l-2.1 1.6l0.7 2.5l-2.2-1.5l-2.2 1.5l0.7-2.5l-2.1-1.6l2.6-0.1zM395.1 65.9l0.9 2.5l2.6 0.1l-2.1 1.6l0.7 2.5l-2.2-1.5l-2.2 1.5l0.7-2.5l-2.1-1.6l2.6-0.1zM416.1 106.1l0.9 2.5l2.6 0.1l-2.1 1.6l0.7 2.5l-2.2-1.5l-2.2 1.5l0.7-2.5l-2.1-1.6l2.6-0.1zM430.5 105.7l0.9 2.5l2.6 0.1l-2.1 1.6l0.7 2.5l-2.2-1.5l-2.2 1.5l0.7-2.5l-2.1-1.6l2.6-0.1zM388.1 115.2l0.9 2.5l2.6 0.1l-2.1 1.6l0.7 2.5l-2.2-1.5l-2.2 1.5l0.7-2.5l-2.1-1.6l2.6-0.1zM446.6 79.4l0.9 2.5l2.6 0.1l-2.1 1.6l0.7 2.5l-2.2-1.5l-2.2 1.5l0.7-2.5l-2.1-1.6l2.6-0.1zM428.8 69.8l0.9 2.5l2.6 0.1l-2.1 1.6l0.7 2.5l-2.2-1.5l-2.2 1.5l0.7-2.5l-2.1-1.6l2.6-0.1zM393 69.8l0.9 2.5l2.6 0.1l-2.1 1.6l0.7 2.5l-2.2-1.5l-2.2 1.5l0.7-2.5l-2.1-1.6l2.6-0.1zM429 89l0.9 2.5l2.6 0.1l-2.1 1.6l0.7 2.5l-2.2-1.5l-2.2 1.5l0.7-2.5l-2.1-1.6l2.6-0.1zM421.6 76.4l0.9 2.5l2.6 0.1l-2.1 1.6l0.7 2.5l-2.2-1.5l-2.2 1.5l0.7-2.5l-2.1-1.6l2.6-0.1zM438.4 91.4l0.9 2.5l2.6 0.1l-2.1 1.6l0.7 2.5l-2.2-1.5l-2.2 1.5l0.7-2.5l-2.1-1.6l2.6-0.1zM386 84.8l0.9 2.5l2.6 0.1l-2.1 1.6l0.7 2.5l-2.2-1.5l-2.2 1.5l0.7-2.5l-2.1-1.6l2.6-0.1zM453.5 94.6l0.9 2.5l2.6 0.1l-2.1 1.6l0.7 2.5l-2.2-1.5l-2.2 1.5l0.7-2.5l-2.1-1.6l2.6-0.1zM416.7 83.1l0.9 2.5l2.6 0.1l-2.1 1.6l0.7 2.5l-2.2-1.5l-2.2 1.5l0.7-2.5l-2.1-1.6l2.6-0.1zM436.7 81.4l0.9 2.5l2.6 0.1l-2.1 1.6l0.7 2.5l-2.2-1.5l-2.2 1.5l0.7-2.5l-2.1-1.6l2.6-0.1zM378.1 71.1l0.9 2.5l2.6 0.1l-2.1 1.6l0.7 2.5l-2.2-1.5l-2.2 1.5l0.7-2.5l-2.1-1.6l2.6-0.1zM416.5 87.7l0.9 2.5l2.6 0.1l-2.1 1.6l0.7 2.5l-2.2-1.5l-2.2 1.5l0.7-2.5l-2.1-1.6l2.6-0.1zM437.6 77.5l0.9 2.5l2.6 0.1l-2.1 1.6l0.7 2.5l-2.2-1.5l-2.2 1.5l0.7-2.5l-2.1-1.6l2.6-0.1zM368.1 94.7l0.9 2.5l2.6 0.1l-2.1 1.6l0.7 2.5l-2.2-1.5l-2.2 1.5l0.7-2.5l-2.1-1.6l2.6-0.1zM403.6 115.1l0.9 2.5l2.6 0.1l-2.1 1.6l0.7 2.5l-2.2-1.5l-2.2 1.5l0.7-2.5l-2.1-1.6l2.6-0.1zM384.5 90.4l0.9 2.5l2.6 0.1l-2.1 1.6l0.7 2.5l-2.2-1.5l-2.2 1.5l0.7-2.5l-2.1-1.6l2.6-0.1zM412.9 106l0.9 2.5l2.6 0.1l-2.1 1.6l0.7 2.5l-2.2-1.5l-2.2 1.5l0.7-2.5l-2.1-1.6l2.6-0.1zM393.6 89.5l0.9 2.5l2.6 0.1l-2.1 1.6l0.7 2.5l-2.2-1.5l-2.2 1.5l0.7-2.5l-2.1-1.6l2.6-0.1zM377.8 64.3l0.9 2.5l2.6 0.1l-2.1 1.6l0.7 2.5l-2.2-1.5l-2.2 1.5l0.7-2.5l-2.1-1.6l2.6-0.1zM432.8 103.9l0.9 2.5l2.6 0.1l-2.1 1.6l0.7 2.5l-2.2-1.5l-2.2 1.5l0.7-2.5l-2.1-1.6l2.6-0.1zM376.4 72.7l0.9 2.5l2.6 0.1l-2.1 1.6l0.7 2.5l-2.2-1.5l-2.2 1.5l0.7-2.5l-2.1-1.6l2.6-0.1zM408.2 73.7l0.9 2.5l2.6 0.1l-2.1 1.6l0.7 2.5l-2.2-1.5l-2.2 1.5l0.7-2.5l-2.1-1.6l2.6-0.1zM417.1 113.4l0.9 2.5l2.6 0.1l-2.1 1.6l0.7 2.5l-2.2-1.5l-2.2 1.5l0.7-2.5l-2.1-1.6l2.6-0.1zM406.7 81l0.9 2.5l2.6 0.1l-2.1 1.6l0.7 2.5l-2.2-1.5l-2.2 1.5l0.7-2.5l-2.1-1.6l2.6-0.1zM376.2 71.8l0.9 2.5l2.6 0.1l-2.1 1.6l0.7 2.5l-2.2-1.5l-2.2 1.5l0.7-2.5l-2.1-1.6l2.6-0.1zM381.1 97.9l0.9 2.5l2.6 0.1l-2.1 1.6l0.7 2.5l-2.2-1.5l-2.2 1.5l0.7-2.5l-2.1-1.6l2.6-0.1zM394.2 101.1l0.9 2.5l2.6 0.1l-2.1 1.6l0.7 2.5l-2.2-1.5l-2.2 1.5l0.7-2.5l-2.1-1.6l2.6-0.1zM407.8 114.6l0.9 2.5l2.6 0.1l-2.1 1.6l0.7 2.5l-2.2-1.5l-2.2 1.5l0.7-2.5l-2.1-1.6l2.6-0.1zM475.4 107.8l0.9 2.5l2.6 0.1l-2.1 1.6l0.7 2.5l-2.2-1.5l-2.2 1.5l0.7-2.5l-2.1-1.6l2.6-0.1zM401.5 86.2l0.9 2.5l2.6 0.1l-2.1 1.6l0.7 2.5l-2.2-1.5l-2.2 1.5l0.7-2.5l-2.1-1.6l2.6-0.1zM374.1 106.7l0.9 2.5l2.6 0.1l-2.1 1.6l0.7 2.5l-2.2-1.5l-2.2 1.5l0.7-2.5l-2.1-1.6l2.6-0.1zM408.4 101.4l0.9 2.5l2.6 0.1l-2.1 1.6l0.7 2.5l-2.2-1.5l-2.2 1.5l0.7-2.5l-2.1-1.6l2.6-0.1zM367.4 78.5l0.9 2.5l2.6 0.1l-2.1 1.6l0.7 2.5l-2.2-1.5l-2.2 1.5l0.7-2.5l-2.1-1.6l2.6-0.1zM447.4 113.4l0.9 2.5l2.6 0.1l-2.1 1.6l0.7 2.5l-2.2-1.5l-2.2 1.5l0.7-2.5l-2.1-1.6l2.6-0.1zM383.1 99.1l0.9 2.5l2.6 0.1l-2.1 1.6l0.7 2.5l-2.2-1.5l-2.2 1.5l0.7-2.5l-2.1-1.6l2.6-0.1zM446.4 70l0.9 2.5l2.6 0.1l-2.1 1.6l0.7 2.5l-2.2-1.5l-2.2 1.5l0.7-2.5l-2.1-1.6l2.6-0.1zM405.4 119.5l0.9 2.5l2.6 0.1l-2.1 1.6l0.7 2.5l-2.2-1.5l-2.2 1.5l0.7-2.5l-2.1-1.6l2.6-0.1zM428.9 96.3l0.9 2.5l2.6 0.1l-2.1 1.6l0.7 2.5l-2.2-1.5l-2.2 1.5l0.7-2.5l-2.1-1.6l2.6-0.1zM420.7 80.9l0.9 2.5l2.6 0.1l-2.1 1.6l0.7 2.5l-2.2-1.5l-2.2 1.5l0.7-2.5l-2.1-1.6l2.6-0.1zM452.5 125.2l0.9 2.5l2.6 0.1l-2.1 1.6l0.7 2.5l-2.2-1.5l-2.2 1.5l0.7-2.5l-2.1-1.6l2.6-0.1zM386.3 94.6l0.9 2.5l2.6 0.1l-2.1 1.6l0.7 2.5l-2.2-1.5l-2.2 1.5l0.7-2.5l-2.1-1.6l2.6-0.1zM367.9 111.7l0.9 2.5l2.6 0.1l-2.1 1.6l0.7 2.5l-2.2-1.5l-2.2 1.5l0.7-2.5l-2.1-1.6l2.6-0.1zM415.6 73.3l0.9 2.5l2.6 0.1l-2.1 1.6l0.7 2.5l-2.2-1.5l-2.2 1.5l0.7-2.5l-2.1-1.6l2.6-0.1zM449.4 120.5l0.9 2.5l2.6 0.1l-2.1 1.6l0.7 2.5l-2.2-1.5l-2.2 1.5l0.7-2.5l-2.1-1.6l2.6-0.1zM456.4 124.7l0.9 2.5l2.6 0.1l-2.1 1.6l0.7 2.5l-2.2-1.5l-2.2 1.5l0.7-2.5l-2.1-1.6l2.6-0.1zM427.3 82.1l0.9 2.5l2.6 0.1l-2.1 1.6l0.7 2.5l-2.2-1.5l-2.2 1.5l0.7-2.5l-2.1-1.6l2.6-0.1zM445.8 100.2l0.9 2.5l2.6 0.1l-2.1 1.6l0.7 2.5l-2.2-1.5l-2.2 1.5l0.7-2.5l-2.1-1.6l2.6-0.1zM397.6 103.3l0.9 2.5l2.6 0.1l-2.1 1.6l0.7 2.5l-2.2-1.5l-2.2 1.5l0.7-2.5l-2.1-1.6l2.6-0.1zM482.9 98.5l0.9 2.5l2.6 0.1l-2.1 1.6l0.7 2.5l-2.2-1.5l-2.2 1.5l0.7-2.5l-2.1-1.6l2.6-0.1zM386.7 94.1l0.9 2.5l2.6 0.1l-2.1 1.6l0.7 2.5l-2.2-1.5l-2.2 1.5l0.7-2.5l-2.1-1.6l2.6-0.1zM398.5 66.2l0.9 2.5l2.6 0.1l-2.1 1.6l0.7 2.5l-2.2-1.5l-2.2 1.5l0.7-2.5l-2.1-1.6l2.6-0.1zM365.8 75.6l0.9 2.5l2.6 0.1l-2.1 1.6l0.7 2.5l-2.2-1.5l-2.2 1.5l0.7-2.5l-2.1-1.6l2.6-0.1zM382 100.1l0.9 2.5l2.6 0.1l-2.1 1.6l0.7 2.5l-2.2-1.5l-2.2 1.5l0.7-2.5l-2.1-1.6l2.6-0.1zM349.6 98.9l0.9 2.5l2.6 0.1l-2.1 1.6l0.7 2.5l-2.2-1.5l-2.2 1.5l0.7-2.5l-2.1-1.6l2.6-0.1zM436.4 73.2l0.9 2.5l2.6 0.1l-2.1 1.6l0.7 2.5l-2.2-1.5l-2.2 1.5l0.7-2.5l-2.1-1.6l2.6-0.1zM416.6 115.6l0.9 2.5l2.6 0.1l-2.1 1.6l0.7 2.5l-2.2-1.5l-2.2 1.5l0.7-2.5l-2.1-1.6l2.6-0.1zM415.3 86.9l0.9 2.5l2.6 0.1l-2.1 1.6l0.7 2.5l-2.2-1.5l-2.2 1.5l0.7-2.5l-2.1-1.6l2.6-0.1zM413 103.5l0.9 2.5l2.6 0.1l-2.1 1.6l0.7 2.5l-2.2-1.5l-2.2 1.5l0.7-2.5l-2.1-1.6l2.6-0.1zM409.6 132.5l0.9 2.5l2.6 0.1l-2.1 1.6l0.7 2.5l-2.2-1.5l-2.2 1.5l0.7-2.5l-2.1-1.6l2.6-0.1zM440.2 75.6l0.9 2.5l2.6 0.1l-2.1 1.6l0.7 2.5l-2.2-1.5l-2.2 1.5l0.7-2.5l-2.1-1.6l2.6-0.1zM389 79.9l0.9 2.5l2.6 0.1l-2.1 1.6l0.7 2.5l-2.2-1.5l-2.2 1.5l0.7-2.5l-2.1-1.6l2.6-0.1zM376.3 104.8l0.9 2.5l2.6 0.1l-2.1 1.6l0.7 2.5l-2.2-1.5l-2.2 1.5l0.7-2.5l-2.1-1.6l2.6-0.1zM403 103.1l0.9 2.5l2.6 0.1l-2.1 1.6l0.7 2.5l-2.2-1.5l-2.2 1.5l0.7-2.5l-2.1-1.6l2.6-0.1zM416.7 95.8l0.9 2.5l2.6 0.1l-2.1 1.6l0.7 2.5l-2.2-1.5l-2.2 1.5l0.7-2.5l-2.1-1.6l2.6-0.1zM440.9 111.9l0.9 2.5l2.6 0.1l-2.1 1.6l0.7 2.5l-2.2-1.5l-2.2 1.5l0.7-2.5l-2.1-1.6l2.6-0.1zM375.9 70.9l0.9 2.5l2.6 0.1l-2.1 1.6l0.7 2.5l-2.2-1.5l-2.2 1.5l0.7-2.5l-2.1-1.6l2.6-0.1zM391.5 101.2l0.9 2.5l2.6 0.1l-2.1 1.6l0.7 2.5l-2.2-1.5l-2.2 1.5l0.7-2.5l-2.1-1.6l2.6-0.1zM407.4 78.3l0.9 2.5l2.6 0.1l-2.1 1.6l0.7 2.5l-2.2-1.5l-2.2 1.5l0.7-2.5l-2.1-1.6l2.6-0.1zM383.2 57.2l0.9 2.5l2.6 0.1l-2.1 1.6l0.7 2.5l-2.2-1.5l-2.2 1.5l0.7-2.5l-2.1-1.6l2.6-0.1zM451.7 105.8l0.9 2.5l2.6 0.1l-2.1 1.6l0.7 2.5l-2.2-1.5l-2.2 1.5l0.7-2.5l-2.1-1.6l2.6-0.1zM404.2 109.7l0.9 2.5l2.6 0.1l-2.1 1.6l0.7 2.5l-2.2-1.5l-2.2 1.5l0.7-2.5l-2.1-1.6l2.6-0.1zM428 92.7l0.9 2.5l2.6 0.1l-2.1 1.6l0.7 2.5l-2.2-1.5l-2.2 1.5l0.7-2.5l-2.1-1.6l2.6-0.1zM402.4 75.5l0.9 2.5l2.6 0.1l-2.1 1.6l0.7 2.5l-2.2-1.5l-2.2 1.5l0.7-2.5l-2.1-1.6l2.6-0.1zM408.4 69.4l0.9 2.5l2.6 0.1l-2.1 1.6l0.7 2.5l-2.2-1.5l-2.2 1.5l0.7-2.5l-2.1-1.6l2.6-0.1zM353.6 101.8l0.9 2.5l2.6 0.1l-2.1 1.6l0.7 2.5l-2.2-1.5l-2.2 1.5l0.7-2.5l-2.1-1.6l2.6-0.1zM398.4 63.4l0.9 2.5l2.6 0.1l-2.1 1.6l0.7 2.5l-2.2-1.5l-2.2 1.5l0.7-2.5l-2.1-1.6l2.6-0.1zM385.6 106.3l0.9 2.5l2.6 0.1l-2.1 1.6l0.7 2.5l-2.2-1.5l-2.2 1.5l0.7-2.5l-2.1-1.6l2.6-0.1zM399.1 70l0.9 2.5l2.6 0.1l-2.1 1.6l0.7 2.5l-2.2-1.5l-2.2 1.5l0.7-2.5l-2.1-1.6l2.6-0.1zM515 99.3l0.9 2.5l2.6 0.1l-2.1 1.6l0.7 2.5l-2.2-1.5l-2.2 1.5l0.7-2.5l-2.1-1.6l2.6-0.1zM508.6 118.6l0.9 2.5l2.6 0.1l-2.1 1.6l0.7 2.5l-2.2-1.5l-2.2 1.5l0.7-2.5l-2.1-1.6l2.6-0.1zM403.6 40.8l0.9 2.5l2.6 0.1l-2.1 1.6l0.7 2.5l-2.2-1.5l-2.2 1.5l0.7-2.5l-2.1-1.6l2.6-0.1zM377.1 143.5l0.9 2.5l2.6 0.1l-2.1 1.6l0.7 2.5l-2.2-1.5l-2.2 1.5l0.7-2.5l-2.1-1.6l2.6-0.1zM378.2 142.7l0.9 2.5l2.6 0.1l-2.1 1.6l0.7 2.5l-2.2-1.5l-2.2 1.5l0.7-2.5l-2.1-1.6l2.6-0.1zM343.2 83.3l0.9 2.5l2.6 0.1l-2.1 1.6l0.7 2.5l-2.2-1.5l-2.2 1.5l0.7-2.5l-2.1-1.6l2.6-0.1zM343.2 100.9l0.9 2.5l2.6 0.1l-2.1 1.6l0.7 2.5l-2.2-1.5l-2.2 1.5l0.7-2.5l-2.1-1.6l2.6-0.1zM503.9 100.1l0.9 2.5l2.6 0.1l-2.1 1.6l0.7 2.5l-2.2-1.5l-2.2 1.5l0.7-2.5l-2.1-1.6l2.6-0.1zM503.9 97.3l0.9 2.5l2.6 0.1l-2.1 1.6l0.7 2.5l-2.2-1.5l-2.2 1.5l0.7-2.5l-2.1-1.6l2.6-0.1zM494.8 128.2l0.9 2.5l2.6 0.1l-2.1 1.6l0.7 2.5l-2.2-1.5l-2.2 1.5l0.7-2.5l-2.1-1.6l2.6-0.1zM487.4 120.2l0.9 2.5l2.6 0.1l-2.1 1.6l0.7 2.5l-2.2-1.5l-2.2 1.5l0.7-2.5l-2.1-1.6l2.6-0.1zM482.1 133.4l0.9 2.5l2.6 0.1l-2.1 1.6l0.7 2.5l-2.2-1.5l-2.2 1.5l0.7-2.5l-2.1-1.6l2.6-0.1zM471.5 80.1l0.9 2.5l2.6 0.1l-2.1 1.6l0.7 2.5l-2.2-1.5l-2.2 1.5l0.7-2.5l-2.1-1.6l2.6-0.1zM469.4 117l0.9 2.5l2.6 0.1l-2.1 1.6l0.7 2.5l-2.2-1.5l-2.2 1.5l0.7-2.5l-2.1-1.6l2.6-0.1zM475.8 105.8l0.9 2.5l2.6 0.1l-2.1 1.6l0.7 2.5l-2.2-1.5l-2.2 1.5l0.7-2.5l-2.1-1.6l2.6-0.1zM495.9 88.9l0.9 2.5l2.6 0.1l-2.1 1.6l0.7 2.5l-2.2-1.5l-2.2 1.5l0.7-2.5l-2.1-1.6l2.6-0.1zM469.4 133.8l0.9 2.5l2.6 0.1l-2.1 1.6l0.7 2.5l-2.2-1.5l-2.2 1.5l0.7-2.5l-2.1-1.6l2.6-0.1zM375 103.4l0.9 2.5l2.6 0.1l-2.1 1.6l0.7 2.5l-2.2-1.5l-2.2 1.5l0.7-2.5l-2.1-1.6l2.6-0.1zM365.5 119.4l0.9 2.5l2.6 0.1l-2.1 1.6l0.7 2.5l-2.2-1.5l-2.2 1.5l0.7-2.5l-2.1-1.6l2.6-0.1zM349.6 109.8l0.9 2.5l2.6 0.1l-2.1 1.6l0.7 2.5l-2.2-1.5l-2.2 1.5l0.7-2.5l-2.1-1.6l2.6-0.1zM354.9 112.2l0.9 2.5l2.6 0.1l-2.1 1.6l0.7 2.5l-2.2-1.5l-2.2 1.5l0.7-2.5l-2.1-1.6l2.6-0.1zM364.4 79.3l0.9 2.5l2.6 0.1l-2.1 1.6l0.7 2.5l-2.2-1.5l-2.2 1.5l0.7-2.5l-2.1-1.6l2.6-0.1zM403.6 127.4l0.9 2.5l2.6 0.1l-2.1 1.6l0.7 2.5l-2.2-1.5l-2.2 1.5l0.7-2.5l-2.1-1.6l2.6-0.1zM422.7 128.2l0.9 2.5l2.6 0.1l-2.1 1.6l0.7 2.5l-2.2-1.5l-2.2 1.5l0.7-2.5l-2.1-1.6l2.6-0.1zM390.9 46.4l0.9 2.5l2.6 0.1l-2.1 1.6l0.7 2.5l-2.2-1.5l-2.2 1.5l0.7-2.5l-2.1-1.6l2.6-0.1zM400.5 54.4l0.9 2.5l2.6 0.1l-2.1 1.6l0.7 2.5l-2.2-1.5l-2.2 1.5l0.7-2.5l-2.1-1.6l2.6-0.1zM430.2 52.8l0.9 2.5l2.6 0.1l-2.1 1.6l0.7 2.5l-2.2-1.5l-2.2 1.5l0.7-2.5l-2.1-1.6l2.6-0.1zM412.1 55.2l0.9 2.5l2.6 0.1l-2.1 1.6l0.7 2.5l-2.2-1.5l-2.2 1.5l0.7-2.5l-2.1-1.6l2.6-0.1zM383.5 47.2l0.9 2.5l2.6 0.1l-2.1 1.6l0.7 2.5l-2.2-1.5l-2.2 1.5l0.7-2.5l-2.1-1.6l2.6-0.1zM476.8 72.1l0.9 2.5l2.6 0.1l-2.1 1.6l0.7 2.5l-2.2-1.5l-2.2 1.5l0.7-2.5l-2.1-1.6l2.6-0.1zM459.8 72.1l0.9 2.5l2.6 0.1l-2.1 1.6l0.7 2.5l-2.2-1.5l-2.2 1.5l0.7-2.5l-2.1-1.6l2.6-0.1zM363.3 137.1l0.9 2.5l2.6 0.1l-2.1 1.6l0.7 2.5l-2.2-1.5l-2.2 1.5l0.7-2.5l-2.1-1.6l2.6-0.1zM406.8 137.1l0.9 2.5l2.6 0.1l-2.1 1.6l0.7 2.5l-2.2-1.5l-2.2 1.5l0.7-2.5l-2.1-1.6l2.6-0.1zM438.6 128.2l0.9 2.5l2.6 0.1l-2.1 1.6l0.7 2.5l-2.2-1.5l-2.2 1.5l0.7-2.5l-2.1-1.6l2.6-0.1zM443.9 127.4l0.9 2.5l2.6 0.1l-2.1 1.6l0.7 2.5l-2.2-1.5l-2.2 1.5l0.7-2.5l-2.1-1.6l2.6-0.1zM460.9 125l0.9 2.5l2.6 0.1l-2.1 1.6l0.7 2.5l-2.2-1.5l-2.2 1.5l0.7-2.5l-2.1-1.6l2.6-0.1zM350.1 86.5l0.9 2.5l2.6 0.1l-2.1 1.6l0.7 2.5l-2.2-1.5l-2.2 1.5l0.7-2.5l-2.1-1.6l2.6-0.1zM351.7 88.1l0.9 2.5l2.6 0.1l-2.1 1.6l0.7 2.5l-2.2-1.5l-2.2 1.5l0.7-2.5l-2.1-1.6l2.6-0.1zM348.5 110.6l0.9 2.5l2.6 0.1l-2.1 1.6l0.7 2.5l-2.2-1.5l-2.2 1.5l0.7-2.5l-2.1-1.6l2.6-0.1zM355.4 118.6l0.9 2.5l2.6 0.1l-2.1 1.6l0.7 2.5l-2.2-1.5l-2.2 1.5l0.7-2.5l-2.1-1.6l2.6-0.1zM358 96.1l0.9 2.5l2.6 0.1l-2.1 1.6l0.7 2.5l-2.2-1.5l-2.2 1.5l0.7-2.5l-2.1-1.6l2.6-0.1zM358 73.7l0.9 2.5l2.6 0.1l-2.1 1.6l0.7 2.5l-2.2-1.5l-2.2 1.5l0.7-2.5l-2.1-1.6l2.6-0.1zM487.4 95.3l0.9 2.5l2.6 0.1l-2.1 1.6l0.7 2.5l-2.2-1.5l-2.2 1.5l0.7-2.5l-2.1-1.6l2.6-0.1zM486.4 111.4l0.9 2.5l2.6 0.1l-2.1 1.6l0.7 2.5l-2.2-1.5l-2.2 1.5l0.7-2.5l-2.1-1.6l2.6-0.1zM489.5 120.2l0.9 2.5l2.6 0.1l-2.1 1.6l0.7 2.5l-2.2-1.5l-2.2 1.5l0.7-2.5l-2.1-1.6l2.6-0.1z"/>
<path d="M324.1 10.8H536.2V171.3H324.1Z" fill="none" stroke="#3c3c3c" stroke-width="0.95"/>
<path d="M377.1 171.3v-2.2M377.1 10.8v2.2M430.2 171.3v-2.2M430.2 10.8v2.2M483.2 171.3v-2.2M483.2 10.8v2.2M324.1 131.2h2.2M536.2 131.2h-2.2M324.1 91.1h2.2M536.2 91.1h-2.2M324.1 50.9h2.2M536.2 50.9h-2.2" fill="none" stroke="#3c3c3c" stroke-width="0.8"/>
<text x="320.85" y="185.80" font-size="12.9" textLength="5.70" lengthAdjust="spacingAndGlyphs">5</text>
<text x="315.50" y="174.50" font-size="12.9" textLength="5.70" lengthAdjust="spacingAndGlyphs">5</text>
<text x="370.83" y="185.80" font-size="12.9" textLength="11.80" lengthAdjust="spacingAndGlyphs">10</text>
<text x="309.40" y="134.38" font-size="12.9" textLength="11.80" lengthAdjust="spacingAndGlyphs">10</text>
<text x="423.85" y="185.80" font-size="12.9" textLength="11.80" lengthAdjust="spacingAndGlyphs">15</text>
<text x="309.40" y="94.25" font-size="12.9" textLength="11.80" lengthAdjust="spacingAndGlyphs">15</text>
<text x="476.88" y="185.80" font-size="12.9" textLength="11.80" lengthAdjust="spacingAndGlyphs">20</text>
<text x="309.40" y="54.13" font-size="12.9" textLength="11.80" lengthAdjust="spacingAndGlyphs">20</text>
<text x="529.90" y="185.80" font-size="12.9" textLength="11.80" lengthAdjust="spacingAndGlyphs">25</text>
<text x="309.40" y="14.00" font-size="12.9" textLength="11.80" lengthAdjust="spacingAndGlyphs">25</text>
<text x="424.69" y="207.20" font-size="14" textLength="6.21" lengthAdjust="spacingAndGlyphs">a</text>
<text x="430.93" y="200.20" font-size="9.5" textLength="4.75" lengthAdjust="spacingAndGlyphs">*</text>
<text x="297.30" y="93.00" font-size="14" textLength="7.00" lengthAdjust="spacingAndGlyphs" transform="rotate(-90 300.80 93.00)">b</text>
<text x="291.32" y="87.40" font-size="9.5" textLength="4.75" lengthAdjust="spacingAndGlyphs" transform="rotate(-90 293.70 87.40)">*</text>
<text x="422.40" y="224.00" font-size="12.6" textLength="15.60" lengthAdjust="spacingAndGlyphs">(b)</text>
<path fill="#0072BD" stroke="#0072BD" stroke-width="0.7" stroke-linejoin="round" d="M104.1 283.3l0.9 2.5l2.6 0.1l-2.1 1.6l0.7 2.5l-2.2-1.5l-2.2 1.5l0.7-2.5l-2.1-1.6l2.6-0.1zM107.5 280.8l0.9 2.5l2.6 0.1l-2.1 1.6l0.7 2.5l-2.2-1.5l-2.2 1.5l0.7-2.5l-2.1-1.6l2.6-0.1zM78.3 283l0.9 2.5l2.6 0.1l-2.1 1.6l0.7 2.5l-2.2-1.5l-2.2 1.5l0.7-2.5l-2.1-1.6l2.6-0.1zM127.1 305.4l0.9 2.5l2.6 0.1l-2.1 1.6l0.7 2.5l-2.2-1.5l-2.2 1.5l0.7-2.5l-2.1-1.6l2.6-0.1zM91 288.5l0.9 2.5l2.6 0.1l-2.1 1.6l0.7 2.5l-2.2-1.5l-2.2 1.5l0.7-2.5l-2.1-1.6l2.6-0.1zM124.4 321.3l0.9 2.5l2.6 0.1l-2.1 1.6l0.7 2.5l-2.2-1.5l-2.2 1.5l0.7-2.5l-2.1-1.6l2.6-0.1zM100.9 290.6l0.9 2.5l2.6 0.1l-2.1 1.6l0.7 2.5l-2.2-1.5l-2.2 1.5l0.7-2.5l-2.1-1.6l2.6-0.1zM146.1 309l0.9 2.5l2.6 0.1l-2.1 1.6l0.7 2.5l-2.2-1.5l-2.2 1.5l0.7-2.5l-2.1-1.6l2.6-0.1zM136.1 299.5l0.9 2.5l2.6 0.1l-2.1 1.6l0.7 2.5l-2.2-1.5l-2.2 1.5l0.7-2.5l-2.1-1.6l2.6-0.1zM117.8 310.9l0.9 2.5l2.6 0.1l-2.1 1.6l0.7 2.5l-2.2-1.5l-2.2 1.5l0.7-2.5l-2.1-1.6l2.6-0.1zM127.7 310.8l0.9 2.5l2.6 0.1l-2.1 1.6l0.7 2.5l-2.2-1.5l-2.2 1.5l0.7-2.5l-2.1-1.6l2.6-0.1zM203.1 345.8l0.9 2.5l2.6 0.1l-2.1 1.6l0.7 2.5l-2.2-1.5l-2.2 1.5l0.7-2.5l-2.1-1.6l2.6-0.1zM79.9 292.3l0.9 2.5l2.6 0.1l-2.1 1.6l0.7 2.5l-2.2-1.5l-2.2 1.5l0.7-2.5l-2.1-1.6l2.6-0.1zM92.5 277.1l0.9 2.5l2.6 0.1l-2.1 1.6l0.7 2.5l-2.2-1.5l-2.2 1.5l0.7-2.5l-2.1-1.6l2.6-0.1zM118.3 312l0.9 2.5l2.6 0.1l-2.1 1.6l0.7 2.5l-2.2-1.5l-2.2 1.5l0.7-2.5l-2.1-1.6l2.6-0.1zM155.2 322.1l0.9 2.5l2.6 0.1l-2.1 1.6l0.7 2.5l-2.2-1.5l-2.2 1.5l0.7-2.5l-2.1-1.6l2.6-0.1zM99.2 298.2l0.9 2.5l2.6 0.1l-2.1 1.6l0.7 2.5l-2.2-1.5l-2.2 1.5l0.7-2.5l-2.1-1.6l2.6-0.1zM114.3 294.3l0.9 2.5l2.6 0.1l-2.1 1.6l0.7 2.5l-2.2-1.5l-2.2 1.5l0.7-2.5l-2.1-1.6l2.6-0.1zM166.5 337.1l0.9 2.5l2.6 0.1l-2.1 1.6l0.7 2.5l-2.2-1.5l-2.2 1.5l0.7-2.5l-2.1-1.6l2.6-0.1zM135 306.5l0.9 2.5l2.6 0.1l-2.1 1.6l0.7 2.5l-2.2-1.5l-2.2 1.5l0.7-2.5l-2.1-1.6l2.6-0.1zM140.6 308.2l0.9 2.5l2.6 0.1l-2.1 1.6l0.7 2.5l-2.2-1.5l-2.2 1.5l0.7-2.5l-2.1-1.6l2.6-0.1zM128.2 301.1l0.9 2.5l2.6 0.1l-2.1 1.6l0.7 2.5l-2.2-1.5l-2.2 1.5l0.7-2.5l-2.1-1.6l2.6-0.1zM166.6 317.8l0.9 2.5l2.6 0.1l-2.1 1.6l0.7 2.5l-2.2-1.5l-2.2 1.5l0.7-2.5l-2.1-1.6l2.6-0.1zM176.2 339.6l0.9 2.5l2.6 0.1l-2.1 1.6l0.7 2.5l-2.2-1.5l-2.2 1.5l0.7-2.5l-2.1-1.6l2.6-0.1zM134.8 306l0.9 2.5l2.6 0.1l-2.1 1.6l0.7 2.5l-2.2-1.5l-2.2 1.5l0.7-2.5l-2.1-1.6l2.6-0.1zM176.4 329.2l0.9 2.5l2.6 0.1l-2.1 1.6l0.7 2.5l-2.2-1.5l-2.2 1.5l0.7-2.5l-2.1-1.6l2.6-0.1zM178.3 345l0.9 2.5l2.6 0.1l-2.1 1.6l0.7 2.5l-2.2-1.5l-2.2 1.5l0.7-2.5l-2.1-1.6l2.6-0.1zM140.1 323.4l0.9 2.5l2.6 0.1l-2.1 1.6l0.7 2.5l-2.2-1.5l-2.2 1.5l0.7-2.5l-2.1-1.6l2.6-0.1zM146.4 316l0.9 2.5l2.6 0.1l-2.1 1.6l0.7 2.5l-2.2-1.5l-2.2 1.5l0.7-2.5l-2.1-1.6l2.6-0.1zM158.3 324.9l0.9 2.5l2.6 0.1l-2.1 1.6l0.7 2.5l-2.2-1.5l-2.2 1.5l0.7-2.5l-2.1-1.6l2.6-0.1zM140.6 307.4l0.9 2.5l2.6 0.1l-2.1 1.6l0.7 2.5l-2.2-1.5l-2.2 1.5l0.7-2.5l-2.1-1.6l2.6-0.1zM89 280.9l0.9 2.5l2.6 0.1l-2.1 1.6l0.7 2.5l-2.2-1.5l-2.2 1.5l0.7-2.5l-2.1-1.6l2.6-0.1zM107.5 288.9l0.9 2.5l2.6 0.1l-2.1 1.6l0.7 2.5l-2.2-1.5l-2.2 1.5l0.7-2.5l-2.1-1.6l2.6-0.1zM105.5 304.2l0.9 2.5l2.6 0.1l-2.1 1.6l0.7 2.5l-2.2-1.5l-2.2 1.5l0.7-2.5l-2.1-1.6l2.6-0.1zM128.2 317.4l0.9 2.5l2.6 0.1l-2.1 1.6l0.7 2.5l-2.2-1.5l-2.2 1.5l0.7-2.5l-2.1-1.6l2.6-0.1zM155 317l0.9 2.5l2.6 0.1l-2.1 1.6l0.7 2.5l-2.2-1.5l-2.2 1.5l0.7-2.5l-2.1-1.6l2.6-0.1zM156 338.9l0.9 2.5l2.6 0.1l-2.1 1.6l0.7 2.5l-2.2-1.5l-2.2 1.5l0.7-2.5l-2.1-1.6l2.6-0.1zM186.9 335.6l0.9 2.5l2.6 0.1l-2.1 1.6l0.7 2.5l-2.2-1.5l-2.2 1.5l0.7-2.5l-2.1-1.6l2.6-0.1zM159.4 335.2l0.9 2.5l2.6 0.1l-2.1 1.6l0.7 2.5l-2.2-1.5l-2.2 1.5l0.7-2.5l-2.1-1.6l2.6-0.1zM182.1 338.3l0.9 2.5l2.6 0.1l-2.1 1.6l0.7 2.5l-2.2-1.5l-2.2 1.5l0.7-2.5l-2.1-1.6l2.6-0.1zM170.1 309.1l0.9 2.5l2.6 0.1l-2.1 1.6l0.7 2.5l-2.2-1.5l-2.2 1.5l0.7-2.5l-2.1-1.6l2.6-0.1zM106.6 289.8l0.9 2.5l2.6 0.1l-2.1 1.6l0.7 2.5l-2.2-1.5l-2.2 1.5l0.7-2.5l-2.1-1.6l2.6-0.1zM117.1 296.8l0.9 2.5l2.6 0.1l-2.1 1.6l0.7 2.5l-2.2-1.5l-2.2 1.5l0.7-2.5l-2.1-1.6l2.6-0.1zM133.8 301.2l0.9 2.5l2.6 0.1l-2.1 1.6l0.7 2.5l-2.2-1.5l-2.2 1.5l0.7-2.5l-2.1-1.6l2.6-0.1zM112.6 294.8l0.9 2.5l2.6 0.1l-2.1 1.6l0.7 2.5l-2.2-1.5l-2.2 1.5l0.7-2.5l-2.1-1.6l2.6-0.1zM155.9 314.7l0.9 2.5l2.6 0.1l-2.1 1.6l0.7 2.5l-2.2-1.5l-2.2 1.5l0.7-2.5l-2.1-1.6l2.6-0.1zM140 306.2l0.9 2.5l2.6 0.1l-2.1 1.6l0.7 2.5l-2.2-1.5l-2.2 1.5l0.7-2.5l-2.1-1.6l2.6-0.1zM111.1 283.9l0.9 2.5l2.6 0.1l-2.1 1.6l0.7 2.5l-2.2-1.5l-2.2 1.5l0.7-2.5l-2.1-1.6l2.6-0.1zM88.3 284.3l0.9 2.5l2.6 0.1l-2.1 1.6l0.7 2.5l-2.2-1.5l-2.2 1.5l0.7-2.5l-2.1-1.6l2.6-0.1zM115.7 312.3l0.9 2.5l2.6 0.1l-2.1 1.6l0.7 2.5l-2.2-1.5l-2.2 1.5l0.7-2.5l-2.1-1.6l2.6-0.1zM131.4 326.4l0.9 2.5l2.6 0.1l-2.1 1.6l0.7 2.5l-2.2-1.5l-2.2 1.5l0.7-2.5l-2.1-1.6l2.6-0.1zM170 323.3l0.9 2.5l2.6 0.1l-2.1 1.6l0.7 2.5l-2.2-1.5l-2.2 1.5l0.7-2.5l-2.1-1.6l2.6-0.1zM166.8 321.7l0.9 2.5l2.6 0.1l-2.1 1.6l0.7 2.5l-2.2-1.5l-2.2 1.5l0.7-2.5l-2.1-1.6l2.6-0.1zM177.6 318.7l0.9 2.5l2.6 0.1l-2.1 1.6l0.7 2.5l-2.2-1.5l-2.2 1.5l0.7-2.5l-2.1-1.6l2.6-0.1zM116.4 320.4l0.9 2.5l2.6 0.1l-2.1 1.6l0.7 2.5l-2.2-1.5l-2.2 1.5l0.7-2.5l-2.1-1.6l2.6-0.1zM131.4 327l0.9 2.5l2.6 0.1l-2.1 1.6l0.7 2.5l-2.2-1.5l-2.2 1.5l0.7-2.5l-2.1-1.6l2.6-0.1zM116.6 320.5l0.9 2.5l2.6 0.1l-2.1 1.6l0.7 2.5l-2.2-1.5l-2.2 1.5l0.7-2.5l-2.1-1.6l2.6-0.1zM101.4 297.2l0.9 2.5l2.6 0.1l-2.1 1.6l0.7 2.5l-2.2-1.5l-2.2 1.5l0.7-2.5l-2.1-1.6l2.6-0.1zM122.2 311l0.9 2.5l2.6 0.1l-2.1 1.6l0.7 2.5l-2.2-1.5l-2.2 1.5l0.7-2.5l-2.1-1.6l2.6-0.1zM167.7 323.9l0.9 2.5l2.6 0.1l-2.1 1.6l0.7 2.5l-2.2-1.5l-2.2 1.5l0.7-2.5l-2.1-1.6l2.6-0.1zM146.3 330.4l0.9 2.5l2.6 0.1l-2.1 1.6l0.7 2.5l-2.2-1.5l-2.2 1.5l0.7-2.5l-2.1-1.6l2.6-0.1zM109 294.4l0.9 2.5l2.6 0.1l-2.1 1.6l0.7 2.5l-2.2-1.5l-2.2 1.5l0.7-2.5l-2.1-1.6l2.6-0.1zM156.7 321l0.9 2.5l2.6 0.1l-2.1 1.6l0.7 2.5l-2.2-1.5l-2.2 1.5l0.7-2.5l-2.1-1.6l2.6-0.1zM142 309.2l0.9 2.5l2.6 0.1l-2.1 1.6l0.7 2.5l-2.2-1.5l-2.2 1.5l0.7-2.5l-2.1-1.6l2.6-0.1zM95.6 294.1l0.9 2.5l2.6 0.1l-2.1 1.6l0.7 2.5l-2.2-1.5l-2.2 1.5l0.7-2.5l-2.1-1.6l2.6-0.1zM113.1 306.6l0.9 2.5l2.6 0.1l-2.1 1.6l0.7 2.5l-2.2-1.5l-2.2 1.5l0.7-2.5l-2.1-1.6l2.6-0.1zM85.1 274.9l0.9 2.5l2.6 0.1l-2.1 1.6l0.7 2.5l-2.2-1.5l-2.2 1.5l0.7-2.5l-2.1-1.6l2.6-0.1zM128 295.8l0.9 2.5l2.6 0.1l-2.1 1.6l0.7 2.5l-2.2-1.5l-2.2 1.5l0.7-2.5l-2.1-1.6l2.6-0.1zM100.6 300.5l0.9 2.5l2.6 0.1l-2.1 1.6l0.7 2.5l-2.2-1.5l-2.2 1.5l0.7-2.5l-2.1-1.6l2.6-0.1zM89 285.1l0.9 2.5l2.6 0.1l-2.1 1.6l0.7 2.5l-2.2-1.5l-2.2 1.5l0.7-2.5l-2.1-1.6l2.6-0.1zM86.6 289.2l0.9 2.5l2.6 0.1l-2.1 1.6l0.7 2.5l-2.2-1.5l-2.2 1.5l0.7-2.5l-2.1-1.6l2.6-0.1zM109.7 288.1l0.9 2.5l2.6 0.1l-2.1 1.6l0.7 2.5l-2.2-1.5l-2.2 1.5l0.7-2.5l-2.1-1.6l2.6-0.1zM117.8 295.1l0.9 2.5l2.6 0.1l-2.1 1.6l0.7 2.5l-2.2-1.5l-2.2 1.5l0.7-2.5l-2.1-1.6l2.6-0.1zM127.5 298.8l0.9 2.5l2.6 0.1l-2.1 1.6l0.7 2.5l-2.2-1.5l-2.2 1.5l0.7-2.5l-2.1-1.6l2.6-0.1zM157.4 318.8l0.9 2.5l2.6 0.1l-2.1 1.6l0.7 2.5l-2.2-1.5l-2.2 1.5l0.7-2.5l-2.1-1.6l2.6-0.1zM182.8 337.4l0.9 2.5l2.6 0.1l-2.1 1.6l0.7 2.5l-2.2-1.5l-2.2 1.5l0.7-2.5l-2.1-1.6l2.6-0.1zM95.8 287.2l0.9 2.5l2.6 0.1l-2.1 1.6l0.7 2.5l-2.2-1.5l-2.2 1.5l0.7-2.5l-2.1-1.6l2.6-0.1zM144.1 338.8l0.9 2.5l2.6 0.1l-2.1 1.6l0.7 2.5l-2.2-1.5l-2.2 1.5l0.7-2.5l-2.1-1.6l2.6-0.1zM103.5 305l0.9 2.5l2.6 0.1l-2.1 1.6l0.7 2.5l-2.2-1.5l-2.2 1.5l0.7-2.5l-2.1-1.6l2.6-0.1zM137.5 322.6l0.9 2.5l2.6 0.1l-2.1 1.6l0.7 2.5l-2.2-1.5l-2.2 1.5l0.7-2.5l-2.1-1.6l2.6-0.1zM137.7 311.4l0.9 2.5l2.6 0.1l-2.1 1.6l0.7 2.5l-2.2-1.5l-2.2 1.5l0.7-2.5l-2.1-1.6l2.6-0.1zM95.5 294.8l0.9 2.5l2.6 0.1l-2.1 1.6l0.7 2.5l-2.2-1.5l-2.2 1.5l0.7-2.5l-2.1-1.6l2.6-0.1zM86.1 307.7l0.9 2.5l2.6 0.1l-2.1 1.6l0.7 2.5l-2.2-1.5l-2.2 1.5l0.7-2.5l-2.1-1.6l2.6-0.1zM153.4 316.3l0.9 2.5l2.6 0.1l-2.1 1.6l0.7 2.5l-2.2-1.5l-2.2 1.5l0.7-2.5l-2.1-1.6l2.6-0.1zM150.2 329.8l0.9 2.5l2.6 0.1l-2.1 1.6l0.7 2.5l-2.2-1.5l-2.2 1.5l0.7-2.5l-2.1-1.6l2.6-0.1zM173.9 339.6l0.9 2.5l2.6 0.1l-2.1 1.6l0.7 2.5l-2.2-1.5l-2.2 1.5l0.7-2.5l-2.1-1.6l2.6-0.1zM124 314.1l0.9 2.5l2.6 0.1l-2.1 1.6l0.7 2.5l-2.2-1.5l-2.2 1.5l0.7-2.5l-2.1-1.6l2.6-0.1zM146.4 326.8l0.9 2.5l2.6 0.1l-2.1 1.6l0.7 2.5l-2.2-1.5l-2.2 1.5l0.7-2.5l-2.1-1.6l2.6-0.1zM113.2 304.9l0.9 2.5l2.6 0.1l-2.1 1.6l0.7 2.5l-2.2-1.5l-2.2 1.5l0.7-2.5l-2.1-1.6l2.6-0.1zM114.6 294.6l0.9 2.5l2.6 0.1l-2.1 1.6l0.7 2.5l-2.2-1.5l-2.2 1.5l0.7-2.5l-2.1-1.6l2.6-0.1zM148.8 315.6l0.9 2.5l2.6 0.1l-2.1 1.6l0.7 2.5l-2.2-1.5l-2.2 1.5l0.7-2.5l-2.1-1.6l2.6-0.1zM104.2 304.5l0.9 2.5l2.6 0.1l-2.1 1.6l0.7 2.5l-2.2-1.5l-2.2 1.5l0.7-2.5l-2.1-1.6l2.6-0.1zM85.2 302l0.9 2.5l2.6 0.1l-2.1 1.6l0.7 2.5l-2.2-1.5l-2.2 1.5l0.7-2.5l-2.1-1.6l2.6-0.1zM147.5 340.9l0.9 2.5l2.6 0.1l-2.1 1.6l0.7 2.5l-2.2-1.5l-2.2 1.5l0.7-2.5l-2.1-1.6l2.6-0.1zM197 347l0.9 2.5l2.6 0.1l-2.1 1.6l0.7 2.5l-2.2-1.5l-2.2 1.5l0.7-2.5l-2.1-1.6l2.6-0.1zM139.9 310.3l0.9 2.5l2.6 0.1l-2.1 1.6l0.7 2.5l-2.2-1.5l-2.2 1.5l0.7-2.5l-2.1-1.6l2.6-0.1zM119 309.7l0.9 2.5l2.6 0.1l-2.1 1.6l0.7 2.5l-2.2-1.5l-2.2 1.5l0.7-2.5l-2.1-1.6l2.6-0.1zM116.5 296.1l0.9 2.5l2.6 0.1l-2.1 1.6l0.7 2.5l-2.2-1.5l-2.2 1.5l0.7-2.5l-2.1-1.6l2.6-0.1zM171.1 333.5l0.9 2.5l2.6 0.1l-2.1 1.6l0.7 2.5l-2.2-1.5l-2.2 1.5l0.7-2.5l-2.1-1.6l2.6-0.1zM89.9 279.7l0.9 2.5l2.6 0.1l-2.1 1.6l0.7 2.5l-2.2-1.5l-2.2 1.5l0.7-2.5l-2.1-1.6l2.6-0.1zM181.6 326.9l0.9 2.5l2.6 0.1l-2.1 1.6l0.7 2.5l-2.2-1.5l-2.2 1.5l0.7-2.5l-2.1-1.6l2.6-0.1zM145.5 326.1l0.9 2.5l2.6 0.1l-2.1 1.6l0.7 2.5l-2.2-1.5l-2.2 1.5l0.7-2.5l-2.1-1.6l2.6-0.1zM131.7 321l0.9 2.5l2.6 0.1l-2.1 1.6l0.7 2.5l-2.2-1.5l-2.2 1.5l0.7-2.5l-2.1-1.6l2.6-0.1zM138.2 315.8l0.9 2.5l2.6 0.1l-2.1 1.6l0.7 2.5l-2.2-1.5l-2.2 1.5l0.7-2.5l-2.1-1.6l2.6-0.1zM177.6 347.3l0.9 2.5l2.6 0.1l-2.1 1.6l0.7 2.5l-2.2-1.5l-2.2 1.5l0.7-2.5l-2.1-1.6l2.6-0.1zM82.4 295.2l0.9 2.5l2.6 0.1l-2.1 1.6l0.7 2.5l-2.2-1.5l-2.2 1.5l0.7-2.5l-2.1-1.6l2.6-0.1zM96 288.9l0.9 2.5l2.6 0.1l-2.1 1.6l0.7 2.5l-2.2-1.5l-2.2 1.5l0.7-2.5l-2.1-1.6l2.6-0.1zM147.9 295l0.9 2.5l2.6 0.1l-2.1 1.6l0.7 2.5l-2.2-1.5l-2.2 1.5l0.7-2.5l-2.1-1.6l2.6-0.1zM157.8 326l0.9 2.5l2.6 0.1l-2.1 1.6l0.7 2.5l-2.2-1.5l-2.2 1.5l0.7-2.5l-2.1-1.6l2.6-0.1zM91.1 303.8l0.9 2.5l2.6 0.1l-2.1 1.6l0.7 2.5l-2.2-1.5l-2.2 1.5l0.7-2.5l-2.1-1.6l2.6-0.1zM107.9 296.8l0.9 2.5l2.6 0.1l-2.1 1.6l0.7 2.5l-2.2-1.5l-2.2 1.5l0.7-2.5l-2.1-1.6l2.6-0.1zM164.4 323.7l0.9 2.5l2.6 0.1l-2.1 1.6l0.7 2.5l-2.2-1.5l-2.2 1.5l0.7-2.5l-2.1-1.6l2.6-0.1zM136.9 317.1l0.9 2.5l2.6 0.1l-2.1 1.6l0.7 2.5l-2.2-1.5l-2.2 1.5l0.7-2.5l-2.1-1.6l2.6-0.1zM154.9 319.5l0.9 2.5l2.6 0.1l-2.1 1.6l0.7 2.5l-2.2-1.5l-2.2 1.5l0.7-2.5l-2.1-1.6l2.6-0.1zM101.1 278.7l0.9 2.5l2.6 0.1l-2.1 1.6l0.7 2.5l-2.2-1.5l-2.2 1.5l0.7-2.5l-2.1-1.6l2.6-0.1zM89.2 306.8l0.9 2.5l2.6 0.1l-2.1 1.6l0.7 2.5l-2.2-1.5l-2.2 1.5l0.7-2.5l-2.1-1.6l2.6-0.1zM88.6 291.7l0.9 2.5l2.6 0.1l-2.1 1.6l0.7 2.5l-2.2-1.5l-2.2 1.5l0.7-2.5l-2.1-1.6l2.6-0.1zM128.8 315.8l0.9 2.5l2.6 0.1l-2.1 1.6l0.7 2.5l-2.2-1.5l-2.2 1.5l0.7-2.5l-2.1-1.6l2.6-0.1zM111.5 308.3l0.9 2.5l2.6 0.1l-2.1 1.6l0.7 2.5l-2.2-1.5l-2.2 1.5l0.7-2.5l-2.1-1.6l2.6-0.1zM122.6 325.9l0.9 2.5l2.6 0.1l-2.1 1.6l0.7 2.5l-2.2-1.5l-2.2 1.5l0.7-2.5l-2.1-1.6l2.6-0.1zM97.7 293l0.9 2.5l2.6 0.1l-2.1 1.6l0.7 2.5l-2.2-1.5l-2.2 1.5l0.7-2.5l-2.1-1.6l2.6-0.1zM163.7 339.4l0.9 2.5l2.6 0.1l-2.1 1.6l0.7 2.5l-2.2-1.5l-2.2 1.5l0.7-2.5l-2.1-1.6l2.6-0.1zM155.3 327l0.9 2.5l2.6 0.1l-2.1 1.6l0.7 2.5l-2.2-1.5l-2.2 1.5l0.7-2.5l-2.1-1.6l2.6-0.1zM93 279.2l0.9 2.5l2.6 0.1l-2.1 1.6l0.7 2.5l-2.2-1.5l-2.2 1.5l0.7-2.5l-2.1-1.6l2.6-0.1zM125.8 311.2l0.9 2.5l2.6 0.1l-2.1 1.6l0.7 2.5l-2.2-1.5l-2.2 1.5l0.7-2.5l-2.1-1.6l2.6-0.1zM118.3 306.2l0.9 2.5l2.6 0.1l-2.1 1.6l0.7 2.5l-2.2-1.5l-2.2 1.5l0.7-2.5l-2.1-1.6l2.6-0.1zM124.3 300.8l0.9 2.5l2.6 0.1l-2.1 1.6l0.7 2.5l-2.2-1.5l-2.2 1.5l0.7-2.5l-2.1-1.6l2.6-0.1zM160.2 321.1l0.9 2.5l2.6 0.1l-2.1 1.6l0.7 2.5l-2.2-1.5l-2.2 1.5l0.7-2.5l-2.1-1.6l2.6-0.1zM172.8 331.1l0.9 2.5l2.6 0.1l-2.1 1.6l0.7 2.5l-2.2-1.5l-2.2 1.5l0.7-2.5l-2.1-1.6l2.6-0.1zM109.1 293.7l0.9 2.5l2.6 0.1l-2.1 1.6l0.7 2.5l-2.2-1.5l-2.2 1.5l0.7-2.5l-2.1-1.6l2.6-0.1zM100.7 294.5l0.9 2.5l2.6 0.1l-2.1 1.6l0.7 2.5l-2.2-1.5l-2.2 1.5l0.7-2.5l-2.1-1.6l2.6-0.1zM165 333.5l0.9 2.5l2.6 0.1l-2.1 1.6l0.7 2.5l-2.2-1.5l-2.2 1.5l0.7-2.5l-2.1-1.6l2.6-0.1zM170.5 333l0.9 2.5l2.6 0.1l-2.1 1.6l0.7 2.5l-2.2-1.5l-2.2 1.5l0.7-2.5l-2.1-1.6l2.6-0.1zM167.2 325.7l0.9 2.5l2.6 0.1l-2.1 1.6l0.7 2.5l-2.2-1.5l-2.2 1.5l0.7-2.5l-2.1-1.6l2.6-0.1zM124.6 313.6l0.9 2.5l2.6 0.1l-2.1 1.6l0.7 2.5l-2.2-1.5l-2.2 1.5l0.7-2.5l-2.1-1.6l2.6-0.1zM141.9 322.3l0.9 2.5l2.6 0.1l-2.1 1.6l0.7 2.5l-2.2-1.5l-2.2 1.5l0.7-2.5l-2.1-1.6l2.6-0.1zM105.2 297.3l0.9 2.5l2.6 0.1l-2.1 1.6l0.7 2.5l-2.2-1.5l-2.2 1.5l0.7-2.5l-2.1-1.6l2.6-0.1zM91.5 289.7l0.9 2.5l2.6 0.1l-2.1 1.6l0.7 2.5l-2.2-1.5l-2.2 1.5l0.7-2.5l-2.1-1.6l2.6-0.1zM141.8 302.4l0.9 2.5l2.6 0.1l-2.1 1.6l0.7 2.5l-2.2-1.5l-2.2 1.5l0.7-2.5l-2.1-1.6l2.6-0.1zM115.9 304.9l0.9 2.5l2.6 0.1l-2.1 1.6l0.7 2.5l-2.2-1.5l-2.2 1.5l0.7-2.5l-2.1-1.6l2.6-0.1zM151.9 334.3l0.9 2.5l2.6 0.1l-2.1 1.6l0.7 2.5l-2.2-1.5l-2.2 1.5l0.7-2.5l-2.1-1.6l2.6-0.1zM121.5 321.2l0.9 2.5l2.6 0.1l-2.1 1.6l0.7 2.5l-2.2-1.5l-2.2 1.5l0.7-2.5l-2.1-1.6l2.6-0.1zM112.2 296.6l0.9 2.5l2.6 0.1l-2.1 1.6l0.7 2.5l-2.2-1.5l-2.2 1.5l0.7-2.5l-2.1-1.6l2.6-0.1zM117.7 297.3l0.9 2.5l2.6 0.1l-2.1 1.6l0.7 2.5l-2.2-1.5l-2.2 1.5l0.7-2.5l-2.1-1.6l2.6-0.1zM78.7 298.8l0.9 2.5l2.6 0.1l-2.1 1.6l0.7 2.5l-2.2-1.5l-2.2 1.5l0.7-2.5l-2.1-1.6l2.6-0.1zM142.8 322.1l0.9 2.5l2.6 0.1l-2.1 1.6l0.7 2.5l-2.2-1.5l-2.2 1.5l0.7-2.5l-2.1-1.6l2.6-0.1zM163.8 320.9l0.9 2.5l2.6 0.1l-2.1 1.6l0.7 2.5l-2.2-1.5l-2.2 1.5l0.7-2.5l-2.1-1.6l2.6-0.1zM99.5 291.1l0.9 2.5l2.6 0.1l-2.1 1.6l0.7 2.5l-2.2-1.5l-2.2 1.5l0.7-2.5l-2.1-1.6l2.6-0.1zM170.4 327.5l0.9 2.5l2.6 0.1l-2.1 1.6l0.7 2.5l-2.2-1.5l-2.2 1.5l0.7-2.5l-2.1-1.6l2.6-0.1zM113.4 304l0.9 2.5l2.6 0.1l-2.1 1.6l0.7 2.5l-2.2-1.5l-2.2 1.5l0.7-2.5l-2.1-1.6l2.6-0.1zM161 327.6l0.9 2.5l2.6 0.1l-2.1 1.6l0.7 2.5l-2.2-1.5l-2.2 1.5l0.7-2.5l-2.1-1.6l2.6-0.1zM149.8 340.3l0.9 2.5l2.6 0.1l-2.1 1.6l0.7 2.5l-2.2-1.5l-2.2 1.5l0.7-2.5l-2.1-1.6l2.6-0.1zM112.5 282.2l0.9 2.5l2.6 0.1l-2.1 1.6l0.7 2.5l-2.2-1.5l-2.2 1.5l0.7-2.5l-2.1-1.6l2.6-0.1zM129.6 300.4l0.9 2.5l2.6 0.1l-2.1 1.6l0.7 2.5l-2.2-1.5l-2.2 1.5l0.7-2.5l-2.1-1.6l2.6-0.1zM131.1 316.8l0.9 2.5l2.6 0.1l-2.1 1.6l0.7 2.5l-2.2-1.5l-2.2 1.5l0.7-2.5l-2.1-1.6l2.6-0.1zM170.9 338.9l0.9 2.5l2.6 0.1l-2.1 1.6l0.7 2.5l-2.2-1.5l-2.2 1.5l0.7-2.5l-2.1-1.6l2.6-0.1zM140.4 314.3l0.9 2.5l2.6 0.1l-2.1 1.6l0.7 2.5l-2.2-1.5l-2.2 1.5l0.7-2.5l-2.1-1.6l2.6-0.1zM127.6 299.1l0.9 2.5l2.6 0.1l-2.1 1.6l0.7 2.5l-2.2-1.5l-2.2 1.5l0.7-2.5l-2.1-1.6l2.6-0.1zM154.7 327.7l0.9 2.5l2.6 0.1l-2.1 1.6l0.7 2.5l-2.2-1.5l-2.2 1.5l0.7-2.5l-2.1-1.6l2.6-0.1zM108.9 311l0.9 2.5l2.6 0.1l-2.1 1.6l0.7 2.5l-2.2-1.5l-2.2 1.5l0.7-2.5l-2.1-1.6l2.6-0.1zM115.6 296.5l0.9 2.5l2.6 0.1l-2.1 1.6l0.7 2.5l-2.2-1.5l-2.2 1.5l0.7-2.5l-2.1-1.6l2.6-0.1zM150.3 322.7l0.9 2.5l2.6 0.1l-2.1 1.6l0.7 2.5l-2.2-1.5l-2.2 1.5l0.7-2.5l-2.1-1.6l2.6-0.1zM162.4 334.3l0.9 2.5l2.6 0.1l-2.1 1.6l0.7 2.5l-2.2-1.5l-2.2 1.5l0.7-2.5l-2.1-1.6l2.6-0.1zM162.1 341.9l0.9 2.5l2.6 0.1l-2.1 1.6l0.7 2.5l-2.2-1.5l-2.2 1.5l0.7-2.5l-2.1-1.6l2.6-0.1zM169.5 323l0.9 2.5l2.6 0.1l-2.1 1.6l0.7 2.5l-2.2-1.5l-2.2 1.5l0.7-2.5l-2.1-1.6l2.6-0.1zM158.6 317.6l0.9 2.5l2.6 0.1l-2.1 1.6l0.7 2.5l-2.2-1.5l-2.2 1.5l0.7-2.5l-2.1-1.6l2.6-0.1zM157.2 336.8l0.9 2.5l2.6 0.1l-2.1 1.6l0.7 2.5l-2.2-1.5l-2.2 1.5l0.7-2.5l-2.1-1.6l2.6-0.1zM77.7 284.8l0.9 2.5l2.6 0.1l-2.1 1.6l0.7 2.5l-2.2-1.5l-2.2 1.5l0.7-2.5l-2.1-1.6l2.6-0.1zM133.8 303.1l0.9 2.5l2.6 0.1l-2.1 1.6l0.7 2.5l-2.2-1.5l-2.2 1.5l0.7-2.5l-2.1-1.6l2.6-0.1zM144.4 321.1l0.9 2.5l2.6 0.1l-2.1 1.6l0.7 2.5l-2.2-1.5l-2.2 1.5l0.7-2.5l-2.1-1.6l2.6-0.1zM119.4 287.4l0.9 2.5l2.6 0.1l-2.1 1.6l0.7 2.5l-2.2-1.5l-2.2 1.5l0.7-2.5l-2.1-1.6l2.6-0.1zM184.9 336.3l0.9 2.5l2.6 0.1l-2.1 1.6l0.7 2.5l-2.2-1.5l-2.2 1.5l0.7-2.5l-2.1-1.6l2.6-0.1zM105.3 317.2l0.9 2.5l2.6 0.1l-2.1 1.6l0.7 2.5l-2.2-1.5l-2.2 1.5l0.7-2.5l-2.1-1.6l2.6-0.1zM113.2 297.1l0.9 2.5l2.6 0.1l-2.1 1.6l0.7 2.5l-2.2-1.5l-2.2 1.5l0.7-2.5l-2.1-1.6l2.6-0.1zM74.6 281.9l0.9 2.5l2.6 0.1l-2.1 1.6l0.7 2.5l-2.2-1.5l-2.2 1.5l0.7-2.5l-2.1-1.6l2.6-0.1zM110.1 305.9l0.9 2.5l2.6 0.1l-2.1 1.6l0.7 2.5l-2.2-1.5l-2.2 1.5l0.7-2.5l-2.1-1.6l2.6-0.1zM102.6 296.3l0.9 2.5l2.6 0.1l-2.1 1.6l0.7 2.5l-2.2-1.5l-2.2 1.5l0.7-2.5l-2.1-1.6l2.6-0.1zM142.3 316.2l0.9 2.5l2.6 0.1l-2.1 1.6l0.7 2.5l-2.2-1.5l-2.2 1.5l0.7-2.5l-2.1-1.6l2.6-0.1zM170.4 317.6l0.9 2.5l2.6 0.1l-2.1 1.6l0.7 2.5l-2.2-1.5l-2.2 1.5l0.7-2.5l-2.1-1.6l2.6-0.1zM100.9 316.6l0.9 2.5l2.6 0.1l-2.1 1.6l0.7 2.5l-2.2-1.5l-2.2 1.5l0.7-2.5l-2.1-1.6l2.6-0.1zM162.2 316l0.9 2.5l2.6 0.1l-2.1 1.6l0.7 2.5l-2.2-1.5l-2.2 1.5l0.7-2.5l-2.1-1.6l2.6-0.1zM94 281.7l0.9 2.5l2.6 0.1l-2.1 1.6l0.7 2.5l-2.2-1.5l-2.2 1.5l0.7-2.5l-2.1-1.6l2.6-0.1zM99.5 284.7l0.9 2.5l2.6 0.1l-2.1 1.6l0.7 2.5l-2.2-1.5l-2.2 1.5l0.7-2.5l-2.1-1.6l2.6-0.1zM107.4 291.7l0.9 2.5l2.6 0.1l-2.1 1.6l0.7 2.5l-2.2-1.5l-2.2 1.5l0.7-2.5l-2.1-1.6l2.6-0.1zM166.6 327.2l0.9 2.5l2.6 0.1l-2.1 1.6l0.7 2.5l-2.2-1.5l-2.2 1.5l0.7-2.5l-2.1-1.6l2.6-0.1zM136 310.1l0.9 2.5l2.6 0.1l-2.1 1.6l0.7 2.5l-2.2-1.5l-2.2 1.5l0.7-2.5l-2.1-1.6l2.6-0.1zM162.5 343.6l0.9 2.5l2.6 0.1l-2.1 1.6l0.7 2.5l-2.2-1.5l-2.2 1.5l0.7-2.5l-2.1-1.6l2.6-0.1zM113.1 295.4l0.9 2.5l2.6 0.1l-2.1 1.6l0.7 2.5l-2.2-1.5l-2.2 1.5l0.7-2.5l-2.1-1.6l2.6-0.1zM119.1 305.2l0.9 2.5l2.6 0.1l-2.1 1.6l0.7 2.5l-2.2-1.5l-2.2 1.5l0.7-2.5l-2.1-1.6l2.6-0.1zM165.4 321.8l0.9 2.5l2.6 0.1l-2.1 1.6l0.7 2.5l-2.2-1.5l-2.2 1.5l0.7-2.5l-2.1-1.6l2.6-0.1zM142 313l0.9 2.5l2.6 0.1l-2.1 1.6l0.7 2.5l-2.2-1.5l-2.2 1.5l0.7-2.5l-2.1-1.6l2.6-0.1zM102.2 284.6l0.9 2.5l2.6 0.1l-2.1 1.6l0.7 2.5l-2.2-1.5l-2.2 1.5l0.7-2.5l-2.1-1.6l2.6-0.1zM131.5 313.3l0.9 2.5l2.6 0.1l-2.1 1.6l0.7 2.5l-2.2-1.5l-2.2 1.5l0.7-2.5l-2.1-1.6l2.6-0.1zM94.2 292.4l0.9 2.5l2.6 0.1l-2.1 1.6l0.7 2.5l-2.2-1.5l-2.2 1.5l0.7-2.5l-2.1-1.6l2.6-0.1zM92.8 296.3l0.9 2.5l2.6 0.1l-2.1 1.6l0.7 2.5l-2.2-1.5l-2.2 1.5l0.7-2.5l-2.1-1.6l2.6-0.1zM88 300.8l0.9 2.5l2.6 0.1l-2.1 1.6l0.7 2.5l-2.2-1.5l-2.2 1.5l0.7-2.5l-2.1-1.6l2.6-0.1zM113 296l0.9 2.5l2.6 0.1l-2.1 1.6l0.7 2.5l-2.2-1.5l-2.2 1.5l0.7-2.5l-2.1-1.6l2.6-0.1zM128.8 306.1l0.9 2.5l2.6 0.1l-2.1 1.6l0.7 2.5l-2.2-1.5l-2.2 1.5l0.7-2.5l-2.1-1.6l2.6-0.1zM146.5 324l0.9 2.5l2.6 0.1l-2.1 1.6l0.7 2.5l-2.2-1.5l-2.2 1.5l0.7-2.5l-2.1-1.6l2.6-0.1zM94.1 300.8l0.9 2.5l2.6 0.1l-2.1 1.6l0.7 2.5l-2.2-1.5l-2.2 1.5l0.7-2.5l-2.1-1.6l2.6-0.1zM98.1 305.7l0.9 2.5l2.6 0.1l-2.1 1.6l0.7 2.5l-2.2-1.5l-2.2 1.5l0.7-2.5l-2.1-1.6l2.6-0.1zM96.4 299.6l0.9 2.5l2.6 0.1l-2.1 1.6l0.7 2.5l-2.2-1.5l-2.2 1.5l0.7-2.5l-2.1-1.6l2.6-0.1zM104.3 296.3l0.9 2.5l2.6 0.1l-2.1 1.6l0.7 2.5l-2.2-1.5l-2.2 1.5l0.7-2.5l-2.1-1.6l2.6-0.1zM178.8 330.6l0.9 2.5l2.6 0.1l-2.1 1.6l0.7 2.5l-2.2-1.5l-2.2 1.5l0.7-2.5l-2.1-1.6l2.6-0.1zM162.7 320l0.9 2.5l2.6 0.1l-2.1 1.6l0.7 2.5l-2.2-1.5l-2.2 1.5l0.7-2.5l-2.1-1.6l2.6-0.1zM109.9 290.1l0.9 2.5l2.6 0.1l-2.1 1.6l0.7 2.5l-2.2-1.5l-2.2 1.5l0.7-2.5l-2.1-1.6l2.6-0.1zM185.2 333.1l0.9 2.5l2.6 0.1l-2.1 1.6l0.7 2.5l-2.2-1.5l-2.2 1.5l0.7-2.5l-2.1-1.6l2.6-0.1zM106.9 286.9l0.9 2.5l2.6 0.1l-2.1 1.6l0.7 2.5l-2.2-1.5l-2.2 1.5l0.7-2.5l-2.1-1.6l2.6-0.1zM162.3 334.6l0.9 2.5l2.6 0.1l-2.1 1.6l0.7 2.5l-2.2-1.5l-2.2 1.5l0.7-2.5l-2.1-1.6l2.6-0.1zM126.3 299.5l0.9 2.5l2.6 0.1l-2.1 1.6l0.7 2.5l-2.2-1.5l-2.2 1.5l0.7-2.5l-2.1-1.6l2.6-0.1zM103 298.7l0.9 2.5l2.6 0.1l-2.1 1.6l0.7 2.5l-2.2-1.5l-2.2 1.5l0.7-2.5l-2.1-1.6l2.6-0.1zM109.2 311.2l0.9 2.5l2.6 0.1l-2.1 1.6l0.7 2.5l-2.2-1.5l-2.2 1.5l0.7-2.5l-2.1-1.6l2.6-0.1zM101.4 299.6l0.9 2.5l2.6 0.1l-2.1 1.6l0.7 2.5l-2.2-1.5l-2.2 1.5l0.7-2.5l-2.1-1.6l2.6-0.1zM92.4 301.9l0.9 2.5l2.6 0.1l-2.1 1.6l0.7 2.5l-2.2-1.5l-2.2 1.5l0.7-2.5l-2.1-1.6l2.6-0.1zM103.1 311.1l0.9 2.5l2.6 0.1l-2.1 1.6l0.7 2.5l-2.2-1.5l-2.2 1.5l0.7-2.5l-2.1-1.6l2.6-0.1zM165.4 337.5l0.9 2.5l2.6 0.1l-2.1 1.6l0.7 2.5l-2.2-1.5l-2.2 1.5l0.7-2.5l-2.1-1.6l2.6-0.1zM137.4 298.4l0.9 2.5l2.6 0.1l-2.1 1.6l0.7 2.5l-2.2-1.5l-2.2 1.5l0.7-2.5l-2.1-1.6l2.6-0.1zM116.2 305.6l0.9 2.5l2.6 0.1l-2.1 1.6l0.7 2.5l-2.2-1.5l-2.2 1.5l0.7-2.5l-2.1-1.6l2.6-0.1zM143.7 335.9l0.9 2.5l2.6 0.1l-2.1 1.6l0.7 2.5l-2.2-1.5l-2.2 1.5l0.7-2.5l-2.1-1.6l2.6-0.1zM94.4 287.6l0.9 2.5l2.6 0.1l-2.1 1.6l0.7 2.5l-2.2-1.5l-2.2 1.5l0.7-2.5l-2.1-1.6l2.6-0.1zM159 341.9l0.9 2.5l2.6 0.1l-2.1 1.6l0.7 2.5l-2.2-1.5l-2.2 1.5l0.7-2.5l-2.1-1.6l2.6-0.1zM116.5 313.1l0.9 2.5l2.6 0.1l-2.1 1.6l0.7 2.5l-2.2-1.5l-2.2 1.5l0.7-2.5l-2.1-1.6l2.6-0.1zM168 323.7l0.9 2.5l2.6 0.1l-2.1 1.6l0.7 2.5l-2.2-1.5l-2.2 1.5l0.7-2.5l-2.1-1.6l2.6-0.1zM86.4 296.3l0.9 2.5l2.6 0.1l-2.1 1.6l0.7 2.5l-2.2-1.5l-2.2 1.5l0.7-2.5l-2.1-1.6l2.6-0.1zM139.7 309.3l0.9 2.5l2.6 0.1l-2.1 1.6l0.7 2.5l-2.2-1.5l-2.2 1.5l0.7-2.5l-2.1-1.6l2.6-0.1zM142.8 310.3l0.9 2.5l2.6 0.1l-2.1 1.6l0.7 2.5l-2.2-1.5l-2.2 1.5l0.7-2.5l-2.1-1.6l2.6-0.1zM105.1 304.8l0.9 2.5l2.6 0.1l-2.1 1.6l0.7 2.5l-2.2-1.5l-2.2 1.5l0.7-2.5l-2.1-1.6l2.6-0.1zM121.5 282.9l0.9 2.5l2.6 0.1l-2.1 1.6l0.7 2.5l-2.2-1.5l-2.2 1.5l0.7-2.5l-2.1-1.6l2.6-0.1zM149.9 323.6l0.9 2.5l2.6 0.1l-2.1 1.6l0.7 2.5l-2.2-1.5l-2.2 1.5l0.7-2.5l-2.1-1.6l2.6-0.1zM126.8 324.4l0.9 2.5l2.6 0.1l-2.1 1.6l0.7 2.5l-2.2-1.5l-2.2 1.5l0.7-2.5l-2.1-1.6l2.6-0.1zM106.5 293.6l0.9 2.5l2.6 0.1l-2.1 1.6l0.7 2.5l-2.2-1.5l-2.2 1.5l0.7-2.5l-2.1-1.6l2.6-0.1zM135.4 321.2l0.9 2.5l2.6 0.1l-2.1 1.6l0.7 2.5l-2.2-1.5l-2.2 1.5l0.7-2.5l-2.1-1.6l2.6-0.1zM167.9 326.2l0.9 2.5l2.6 0.1l-2.1 1.6l0.7 2.5l-2.2-1.5l-2.2 1.5l0.7-2.5l-2.1-1.6l2.6-0.1zM139.3 316.6l0.9 2.5l2.6 0.1l-2.1 1.6l0.7 2.5l-2.2-1.5l-2.2 1.5l0.7-2.5l-2.1-1.6l2.6-0.1zM104.7 296.8l0.9 2.5l2.6 0.1l-2.1 1.6l0.7 2.5l-2.2-1.5l-2.2 1.5l0.7-2.5l-2.1-1.6l2.6-0.1zM97.9 281l0.9 2.5l2.6 0.1l-2.1 1.6l0.7 2.5l-2.2-1.5l-2.2 1.5l0.7-2.5l-2.1-1.6l2.6-0.1zM86.9 278.2l0.9 2.5l2.6 0.1l-2.1 1.6l0.7 2.5l-2.2-1.5l-2.2 1.5l0.7-2.5l-2.1-1.6l2.6-0.1zM94.8 287l0.9 2.5l2.6 0.1l-2.1 1.6l0.7 2.5l-2.2-1.5l-2.2 1.5l0.7-2.5l-2.1-1.6l2.6-0.1zM143.6 325.1l0.9 2.5l2.6 0.1l-2.1 1.6l0.7 2.5l-2.2-1.5l-2.2 1.5l0.7-2.5l-2.1-1.6l2.6-0.1zM99.5 284l0.9 2.5l2.6 0.1l-2.1 1.6l0.7 2.5l-2.2-1.5l-2.2 1.5l0.7-2.5l-2.1-1.6l2.6-0.1zM130.4 331.6l0.9 2.5l2.6 0.1l-2.1 1.6l0.7 2.5l-2.2-1.5l-2.2 1.5l0.7-2.5l-2.1-1.6l2.6-0.1zM83.6 286l0.9 2.5l2.6 0.1l-2.1 1.6l0.7 2.5l-2.2-1.5l-2.2 1.5l0.7-2.5l-2.1-1.6l2.6-0.1zM93.2 293.6l0.9 2.5l2.6 0.1l-2.1 1.6l0.7 2.5l-2.2-1.5l-2.2 1.5l0.7-2.5l-2.1-1.6l2.6-0.1zM101.7 300.3l0.9 2.5l2.6 0.1l-2.1 1.6l0.7 2.5l-2.2-1.5l-2.2 1.5l0.7-2.5l-2.1-1.6l2.6-0.1zM161.9 318.5l0.9 2.5l2.6 0.1l-2.1 1.6l0.7 2.5l-2.2-1.5l-2.2 1.5l0.7-2.5l-2.1-1.6l2.6-0.1zM116.1 301.9l0.9 2.5l2.6 0.1l-2.1 1.6l0.7 2.5l-2.2-1.5l-2.2 1.5l0.7-2.5l-2.1-1.6l2.6-0.1zM176.9 338l0.9 2.5l2.6 0.1l-2.1 1.6l0.7 2.5l-2.2-1.5l-2.2 1.5l0.7-2.5l-2.1-1.6l2.6-0.1zM115.9 291.7l0.9 2.5l2.6 0.1l-2.1 1.6l0.7 2.5l-2.2-1.5l-2.2 1.5l0.7-2.5l-2.1-1.6l2.6-0.1zM163.1 330.6l0.9 2.5l2.6 0.1l-2.1 1.6l0.7 2.5l-2.2-1.5l-2.2 1.5l0.7-2.5l-2.1-1.6l2.6-0.1zM105.4 284.8l0.9 2.5l2.6 0.1l-2.1 1.6l0.7 2.5l-2.2-1.5l-2.2 1.5l0.7-2.5l-2.1-1.6l2.6-0.1zM160.6 320.8l0.9 2.5l2.6 0.1l-2.1 1.6l0.7 2.5l-2.2-1.5l-2.2 1.5l0.7-2.5l-2.1-1.6l2.6-0.1zM189.7 329.6l0.9 2.5l2.6 0.1l-2.1 1.6l0.7 2.5l-2.2-1.5l-2.2 1.5l0.7-2.5l-2.1-1.6l2.6-0.1zM99.8 291.2l0.9 2.5l2.6 0.1l-2.1 1.6l0.7 2.5l-2.2-1.5l-2.2 1.5l0.7-2.5l-2.1-1.6l2.6-0.1zM116.8 303.3l0.9 2.5l2.6 0.1l-2.1 1.6l0.7 2.5l-2.2-1.5l-2.2 1.5l0.7-2.5l-2.1-1.6l2.6-0.1zM94.8 297.5l0.9 2.5l2.6 0.1l-2.1 1.6l0.7 2.5l-2.2-1.5l-2.2 1.5l0.7-2.5l-2.1-1.6l2.6-0.1zM93.3 307.6l0.9 2.5l2.6 0.1l-2.1 1.6l0.7 2.5l-2.2-1.5l-2.2 1.5l0.7-2.5l-2.1-1.6l2.6-0.1zM130.5 324.5l0.9 2.5l2.6 0.1l-2.1 1.6l0.7 2.5l-2.2-1.5l-2.2 1.5l0.7-2.5l-2.1-1.6l2.6-0.1zM97.8 300.5l0.9 2.5l2.6 0.1l-2.1 1.6l0.7 2.5l-2.2-1.5l-2.2 1.5l0.7-2.5l-2.1-1.6l2.6-0.1zM106 286.9l0.9 2.5l2.6 0.1l-2.1 1.6l0.7 2.5l-2.2-1.5l-2.2 1.5l0.7-2.5l-2.1-1.6l2.6-0.1zM112.7 286.4l0.9 2.5l2.6 0.1l-2.1 1.6l0.7 2.5l-2.2-1.5l-2.2 1.5l0.7-2.5l-2.1-1.6l2.6-0.1zM139.7 327.9l0.9 2.5l2.6 0.1l-2.1 1.6l0.7 2.5l-2.2-1.5l-2.2 1.5l0.7-2.5l-2.1-1.6l2.6-0.1zM93.1 285.4l0.9 2.5l2.6 0.1l-2.1 1.6l0.7 2.5l-2.2-1.5l-2.2 1.5l0.7-2.5l-2.1-1.6l2.6-0.1zM157.6 321.9l0.9 2.5l2.6 0.1l-2.1 1.6l0.7 2.5l-2.2-1.5l-2.2 1.5l0.7-2.5l-2.1-1.6l2.6-0.1zM104.6 288.9l0.9 2.5l2.6 0.1l-2.1 1.6l0.7 2.5l-2.2-1.5l-2.2 1.5l0.7-2.5l-2.1-1.6l2.6-0.1zM147.1 327.8l0.9 2.5l2.6 0.1l-2.1 1.6l0.7 2.5l-2.2-1.5l-2.2 1.5l0.7-2.5l-2.1-1.6l2.6-0.1zM117.7 316l0.9 2.5l2.6 0.1l-2.1 1.6l0.7 2.5l-2.2-1.5l-2.2 1.5l0.7-2.5l-2.1-1.6l2.6-0.1zM145 320.1l0.9 2.5l2.6 0.1l-2.1 1.6l0.7 2.5l-2.2-1.5l-2.2 1.5l0.7-2.5l-2.1-1.6l2.6-0.1zM128.8 322.4l0.9 2.5l2.6 0.1l-2.1 1.6l0.7 2.5l-2.2-1.5l-2.2 1.5l0.7-2.5l-2.1-1.6l2.6-0.1zM80.1 291.9l0.9 2.5l2.6 0.1l-2.1 1.6l0.7 2.5l-2.2-1.5l-2.2 1.5l0.7-2.5l-2.1-1.6l2.6-0.1zM107.7 309.1l0.9 2.5l2.6 0.1l-2.1 1.6l0.7 2.5l-2.2-1.5l-2.2 1.5l0.7-2.5l-2.1-1.6l2.6-0.1zM154.8 339.6l0.9 2.5l2.6 0.1l-2.1 1.6l0.7 2.5l-2.2-1.5l-2.2 1.5l0.7-2.5l-2.1-1.6l2.6-0.1zM147.4 337.3l0.9 2.5l2.6 0.1l-2.1 1.6l0.7 2.5l-2.2-1.5l-2.2 1.5l0.7-2.5l-2.1-1.6l2.6-0.1zM178.4 341.8l0.9 2.5l2.6 0.1l-2.1 1.6l0.7 2.5l-2.2-1.5l-2.2 1.5l0.7-2.5l-2.1-1.6l2.6-0.1zM81.9 284.8l0.9 2.5l2.6 0.1l-2.1 1.6l0.7 2.5l-2.2-1.5l-2.2 1.5l0.7-2.5l-2.1-1.6l2.6-0.1zM170.5 334l0.9 2.5l2.6 0.1l-2.1 1.6l0.7 2.5l-2.2-1.5l-2.2 1.5l0.7-2.5l-2.1-1.6l2.6-0.1zM131.3 319.7l0.9 2.5l2.6 0.1l-2.1 1.6l0.7 2.5l-2.2-1.5l-2.2 1.5l0.7-2.5l-2.1-1.6l2.6-0.1zM162.9 339.6l0.9 2.5l2.6 0.1l-2.1 1.6l0.7 2.5l-2.2-1.5l-2.2 1.5l0.7-2.5l-2.1-1.6l2.6-0.1zM108.3 297.9l0.9 2.5l2.6 0.1l-2.1 1.6l0.7 2.5l-2.2-1.5l-2.2 1.5l0.7-2.5l-2.1-1.6l2.6-0.1zM90.5 310.2l0.9 2.5l2.6 0.1l-2.1 1.6l0.7 2.5l-2.2-1.5l-2.2 1.5l0.7-2.5l-2.1-1.6l2.6-0.1zM112.4 324l0.9 2.5l2.6 0.1l-2.1 1.6l0.7 2.5l-2.2-1.5l-2.2 1.5l0.7-2.5l-2.1-1.6l2.6-0.1zM170.2 326.5l0.9 2.5l2.6 0.1l-2.1 1.6l0.7 2.5l-2.2-1.5l-2.2 1.5l0.7-2.5l-2.1-1.6l2.6-0.1zM158 338.9l0.9 2.5l2.6 0.1l-2.1 1.6l0.7 2.5l-2.2-1.5l-2.2 1.5l0.7-2.5l-2.1-1.6l2.6-0.1zM105.4 305.3l0.9 2.5l2.6 0.1l-2.1 1.6l0.7 2.5l-2.2-1.5l-2.2 1.5l0.7-2.5l-2.1-1.6l2.6-0.1zM86.9 289.3l0.9 2.5l2.6 0.1l-2.1 1.6l0.7 2.5l-2.2-1.5l-2.2 1.5l0.7-2.5l-2.1-1.6l2.6-0.1zM167.3 325.8l0.9 2.5l2.6 0.1l-2.1 1.6l0.7 2.5l-2.2-1.5l-2.2 1.5l0.7-2.5l-2.1-1.6l2.6-0.1zM171 341.9l0.9 2.5l2.6 0.1l-2.1 1.6l0.7 2.5l-2.2-1.5l-2.2 1.5l0.7-2.5l-2.1-1.6l2.6-0.1zM111.4 294.3l0.9 2.5l2.6 0.1l-2.1 1.6l0.7 2.5l-2.2-1.5l-2.2 1.5l0.7-2.5l-2.1-1.6l2.6-0.1zM106.8 299.6l0.9 2.5l2.6 0.1l-2.1 1.6l0.7 2.5l-2.2-1.5l-2.2 1.5l0.7-2.5l-2.1-1.6l2.6-0.1zM65.7 283.4l0.9 2.5l2.6 0.1l-2.1 1.6l0.7 2.5l-2.2-1.5l-2.2 1.5l0.7-2.5l-2.1-1.6l2.6-0.1zM166.6 318.5l0.9 2.5l2.6 0.1l-2.1 1.6l0.7 2.5l-2.2-1.5l-2.2 1.5l0.7-2.5l-2.1-1.6l2.6-0.1zM99.2 294l0.9 2.5l2.6 0.1l-2.1 1.6l0.7 2.5l-2.2-1.5l-2.2 1.5l0.7-2.5l-2.1-1.6l2.6-0.1zM156 319.6l0.9 2.5l2.6 0.1l-2.1 1.6l0.7 2.5l-2.2-1.5l-2.2 1.5l0.7-2.5l-2.1-1.6l2.6-0.1zM111.7 309.5l0.9 2.5l2.6 0.1l-2.1 1.6l0.7 2.5l-2.2-1.5l-2.2 1.5l0.7-2.5l-2.1-1.6l2.6-0.1zM156.7 313.9l0.9 2.5l2.6 0.1l-2.1 1.6l0.7 2.5l-2.2-1.5l-2.2 1.5l0.7-2.5l-2.1-1.6l2.6-0.1zM149.8 321.5l0.9 2.5l2.6 0.1l-2.1 1.6l0.7 2.5l-2.2-1.5l-2.2 1.5l0.7-2.5l-2.1-1.6l2.6-0.1zM116.3 312.1l0.9 2.5l2.6 0.1l-2.1 1.6l0.7 2.5l-2.2-1.5l-2.2 1.5l0.7-2.5l-2.1-1.6l2.6-0.1zM122 292.5l0.9 2.5l2.6 0.1l-2.1 1.6l0.7 2.5l-2.2-1.5l-2.2 1.5l0.7-2.5l-2.1-1.6l2.6-0.1zM144.8 314.8l0.9 2.5l2.6 0.1l-2.1 1.6l0.7 2.5l-2.2-1.5l-2.2 1.5l0.7-2.5l-2.1-1.6l2.6-0.1zM119.7 315.5l0.9 2.5l2.6 0.1l-2.1 1.6l0.7 2.5l-2.2-1.5l-2.2 1.5l0.7-2.5l-2.1-1.6l2.6-0.1zM156.8 326.1l0.9 2.5l2.6 0.1l-2.1 1.6l0.7 2.5l-2.2-1.5l-2.2 1.5l0.7-2.5l-2.1-1.6l2.6-0.1zM85.2 278.7l0.9 2.5l2.6 0.1l-2.1 1.6l0.7 2.5l-2.2-1.5l-2.2 1.5l0.7-2.5l-2.1-1.6l2.6-0.1zM146.5 307l0.9 2.5l2.6 0.1l-2.1 1.6l0.7 2.5l-2.2-1.5l-2.2 1.5l0.7-2.5l-2.1-1.6l2.6-0.1zM142.2 324.5l0.9 2.5l2.6 0.1l-2.1 1.6l0.7 2.5l-2.2-1.5l-2.2 1.5l0.7-2.5l-2.1-1.6l2.6-0.1zM156.1 317.1l0.9 2.5l2.6 0.1l-2.1 1.6l0.7 2.5l-2.2-1.5l-2.2 1.5l0.7-2.5l-2.1-1.6l2.6-0.1zM97.5 313.5l0.9 2.5l2.6 0.1l-2.1 1.6l0.7 2.5l-2.2-1.5l-2.2 1.5l0.7-2.5l-2.1-1.6l2.6-0.1zM140.3 310.9l0.9 2.5l2.6 0.1l-2.1 1.6l0.7 2.5l-2.2-1.5l-2.2 1.5l0.7-2.5l-2.1-1.6l2.6-0.1zM91.1 284.9l0.9 2.5l2.6 0.1l-2.1 1.6l0.7 2.5l-2.2-1.5l-2.2 1.5l0.7-2.5l-2.1-1.6l2.6-0.1zM135.2 317.8l0.9 2.5l2.6 0.1l-2.1 1.6l0.7 2.5l-2.2-1.5l-2.2 1.5l0.7-2.5l-2.1-1.6l2.6-0.1zM100.8 292.8l0.9 2.5l2.6 0.1l-2.1 1.6l0.7 2.5l-2.2-1.5l-2.2 1.5l0.7-2.5l-2.1-1.6l2.6-0.1zM123 302.2l0.9 2.5l2.6 0.1l-2.1 1.6l0.7 2.5l-2.2-1.5l-2.2 1.5l0.7-2.5l-2.1-1.6l2.6-0.1zM131.1 317.9l0.9 2.5l2.6 0.1l-2.1 1.6l0.7 2.5l-2.2-1.5l-2.2 1.5l0.7-2.5l-2.1-1.6l2.6-0.1zM199.3 349.3l0.9 2.5l2.6 0.1l-2.1 1.6l0.7 2.5l-2.2-1.5l-2.2 1.5l0.7-2.5l-2.1-1.6l2.6-0.1zM98 299.4l0.9 2.5l2.6 0.1l-2.1 1.6l0.7 2.5l-2.2-1.5l-2.2 1.5l0.7-2.5l-2.1-1.6l2.6-0.1zM187.6 353l0.9 2.5l2.6 0.1l-2.1 1.6l0.7 2.5l-2.2-1.5l-2.2 1.5l0.7-2.5l-2.1-1.6l2.6-0.1zM100.7 293l0.9 2.5l2.6 0.1l-2.1 1.6l0.7 2.5l-2.2-1.5l-2.2 1.5l0.7-2.5l-2.1-1.6l2.6-0.1zM121.6 305.6l0.9 2.5l2.6 0.1l-2.1 1.6l0.7 2.5l-2.2-1.5l-2.2 1.5l0.7-2.5l-2.1-1.6l2.6-0.1zM143.6 330.9l0.9 2.5l2.6 0.1l-2.1 1.6l0.7 2.5l-2.2-1.5l-2.2 1.5l0.7-2.5l-2.1-1.6l2.6-0.1zM96.4 282.9l0.9 2.5l2.6 0.1l-2.1 1.6l0.7 2.5l-2.2-1.5l-2.2 1.5l0.7-2.5l-2.1-1.6l2.6-0.1zM136 318.7l0.9 2.5l2.6 0.1l-2.1 1.6l0.7 2.5l-2.2-1.5l-2.2 1.5l0.7-2.5l-2.1-1.6l2.6-0.1zM111.7 291.4l0.9 2.5l2.6 0.1l-2.1 1.6l0.7 2.5l-2.2-1.5l-2.2 1.5l0.7-2.5l-2.1-1.6l2.6-0.1zM89.4 292l0.9 2.5l2.6 0.1l-2.1 1.6l0.7 2.5l-2.2-1.5l-2.2 1.5l0.7-2.5l-2.1-1.6l2.6-0.1zM111.3 287.3l0.9 2.5l2.6 0.1l-2.1 1.6l0.7 2.5l-2.2-1.5l-2.2 1.5l0.7-2.5l-2.1-1.6l2.6-0.1zM131.3 302.3l0.9 2.5l2.6 0.1l-2.1 1.6l0.7 2.5l-2.2-1.5l-2.2 1.5l0.7-2.5l-2.1-1.6l2.6-0.1zM117.9 302.3l0.9 2.5l2.6 0.1l-2.1 1.6l0.7 2.5l-2.2-1.5l-2.2 1.5l0.7-2.5l-2.1-1.6l2.6-0.1zM119.7 288.5l0.9 2.5l2.6 0.1l-2.1 1.6l0.7 2.5l-2.2-1.5l-2.2 1.5l0.7-2.5l-2.1-1.6l2.6-0.1zM105.3 291.1l0.9 2.5l2.6 0.1l-2.1 1.6l0.7 2.5l-2.2-1.5l-2.2 1.5l0.7-2.5l-2.1-1.6l2.6-0.1zM166.3 325.2l0.9 2.5l2.6 0.1l-2.1 1.6l0.7 2.5l-2.2-1.5l-2.2 1.5l0.7-2.5l-2.1-1.6l2.6-0.1zM119.2 296.6l0.9 2.5l2.6 0.1l-2.1 1.6l0.7 2.5l-2.2-1.5l-2.2 1.5l0.7-2.5l-2.1-1.6l2.6-0.1zM144.3 315.8l0.9 2.5l2.6 0.1l-2.1 1.6l0.7 2.5l-2.2-1.5l-2.2 1.5l0.7-2.5l-2.1-1.6l2.6-0.1zM94.8 312.2l0.9 2.5l2.6 0.1l-2.1 1.6l0.7 2.5l-2.2-1.5l-2.2 1.5l0.7-2.5l-2.1-1.6l2.6-0.1zM96.2 300.7l0.9 2.5l2.6 0.1l-2.1 1.6l0.7 2.5l-2.2-1.5l-2.2 1.5l0.7-2.5l-2.1-1.6l2.6-0.1zM121.5 297.2l0.9 2.5l2.6 0.1l-2.1 1.6l0.7 2.5l-2.2-1.5l-2.2 1.5l0.7-2.5l-2.1-1.6l2.6-0.1zM123.4 293.7l0.9 2.5l2.6 0.1l-2.1 1.6l0.7 2.5l-2.2-1.5l-2.2 1.5l0.7-2.5l-2.1-1.6l2.6-0.1zM83.2 293.7l0.9 2.5l2.6 0.1l-2.1 1.6l0.7 2.5l-2.2-1.5l-2.2 1.5l0.7-2.5l-2.1-1.6l2.6-0.1zM125.3 303.7l0.9 2.5l2.6 0.1l-2.1 1.6l0.7 2.5l-2.2-1.5l-2.2 1.5l0.7-2.5l-2.1-1.6l2.6-0.1zM101.9 307.4l0.9 2.5l2.6 0.1l-2.1 1.6l0.7 2.5l-2.2-1.5l-2.2 1.5l0.7-2.5l-2.1-1.6l2.6-0.1zM126.4 303.7l0.9 2.5l2.6 0.1l-2.1 1.6l0.7 2.5l-2.2-1.5l-2.2 1.5l0.7-2.5l-2.1-1.6l2.6-0.1zM99.4 294.8l0.9 2.5l2.6 0.1l-2.1 1.6l0.7 2.5l-2.2-1.5l-2.2 1.5l0.7-2.5l-2.1-1.6l2.6-0.1zM105.2 282.6l0.9 2.5l2.6 0.1l-2.1 1.6l0.7 2.5l-2.2-1.5l-2.2 1.5l0.7-2.5l-2.1-1.6l2.6-0.1zM112.4 311.5l0.9 2.5l2.6 0.1l-2.1 1.6l0.7 2.5l-2.2-1.5l-2.2 1.5l0.7-2.5l-2.1-1.6l2.6-0.1zM119.3 306.9l0.9 2.5l2.6 0.1l-2.1 1.6l0.7 2.5l-2.2-1.5l-2.2 1.5l0.7-2.5l-2.1-1.6l2.6-0.1zM126.4 305.8l0.9 2.5l2.6 0.1l-2.1 1.6l0.7 2.5l-2.2-1.5l-2.2 1.5l0.7-2.5l-2.1-1.6l2.6-0.1zM118.6 304l0.9 2.5l2.6 0.1l-2.1 1.6l0.7 2.5l-2.2-1.5l-2.2 1.5l0.7-2.5l-2.1-1.6l2.6-0.1zM126.6 301.7l0.9 2.5l2.6 0.1l-2.1 1.6l0.7 2.5l-2.2-1.5l-2.2 1.5l0.7-2.5l-2.1-1.6l2.6-0.1zM103 285.5l0.9 2.5l2.6 0.1l-2.1 1.6l0.7 2.5l-2.2-1.5l-2.2 1.5l0.7-2.5l-2.1-1.6l2.6-0.1zM157.2 318.4l0.9 2.5l2.6 0.1l-2.1 1.6l0.7 2.5l-2.2-1.5l-2.2 1.5l0.7-2.5l-2.1-1.6l2.6-0.1zM120.4 315.4l0.9 2.5l2.6 0.1l-2.1 1.6l0.7 2.5l-2.2-1.5l-2.2 1.5l0.7-2.5l-2.1-1.6l2.6-0.1zM93.2 289.8l0.9 2.5l2.6 0.1l-2.1 1.6l0.7 2.5l-2.2-1.5l-2.2 1.5l0.7-2.5l-2.1-1.6l2.6-0.1zM121.9 314.5l0.9 2.5l2.6 0.1l-2.1 1.6l0.7 2.5l-2.2-1.5l-2.2 1.5l0.7-2.5l-2.1-1.6l2.6-0.1zM158.5 332.1l0.9 2.5l2.6 0.1l-2.1 1.6l0.7 2.5l-2.2-1.5l-2.2 1.5l0.7-2.5l-2.1-1.6l2.6-0.1zM119.1 292.1l0.9 2.5l2.6 0.1l-2.1 1.6l0.7 2.5l-2.2-1.5l-2.2 1.5l0.7-2.5l-2.1-1.6l2.6-0.1zM107.7 302.6l0.9 2.5l2.6 0.1l-2.1 1.6l0.7 2.5l-2.2-1.5l-2.2 1.5l0.7-2.5l-2.1-1.6l2.6-0.1zM90.9 300l0.9 2.5l2.6 0.1l-2.1 1.6l0.7 2.5l-2.2-1.5l-2.2 1.5l0.7-2.5l-2.1-1.6l2.6-0.1zM101 295.6l0.9 2.5l2.6 0.1l-2.1 1.6l0.7 2.5l-2.2-1.5l-2.2 1.5l0.7-2.5l-2.1-1.6l2.6-0.1zM165.3 327.1l0.9 2.5l2.6 0.1l-2.1 1.6l0.7 2.5l-2.2-1.5l-2.2 1.5l0.7-2.5l-2.1-1.6l2.6-0.1zM117.1 305l0.9 2.5l2.6 0.1l-2.1 1.6l0.7 2.5l-2.2-1.5l-2.2 1.5l0.7-2.5l-2.1-1.6l2.6-0.1zM81.7 274.4l0.9 2.5l2.6 0.1l-2.1 1.6l0.7 2.5l-2.2-1.5l-2.2 1.5l0.7-2.5l-2.1-1.6l2.6-0.1zM88.1 281.3l0.9 2.5l2.6 0.1l-2.1 1.6l0.7 2.5l-2.2-1.5l-2.2 1.5l0.7-2.5l-2.1-1.6l2.6-0.1zM115.5 302.5l0.9 2.5l2.6 0.1l-2.1 1.6l0.7 2.5l-2.2-1.5l-2.2 1.5l0.7-2.5l-2.1-1.6l2.6-0.1zM101.3 292.4l0.9 2.5l2.6 0.1l-2.1 1.6l0.7 2.5l-2.2-1.5l-2.2 1.5l0.7-2.5l-2.1-1.6l2.6-0.1zM139.5 320l0.9 2.5l2.6 0.1l-2.1 1.6l0.7 2.5l-2.2-1.5l-2.2 1.5l0.7-2.5l-2.1-1.6l2.6-0.1zM108.7 304.8l0.9 2.5l2.6 0.1l-2.1 1.6l0.7 2.5l-2.2-1.5l-2.2 1.5l0.7-2.5l-2.1-1.6l2.6-0.1zM161.4 335.6l0.9 2.5l2.6 0.1l-2.1 1.6l0.7 2.5l-2.2-1.5l-2.2 1.5l0.7-2.5l-2.1-1.6l2.6-0.1zM143.2 331.1l0.9 2.5l2.6 0.1l-2.1 1.6l0.7 2.5l-2.2-1.5l-2.2 1.5l0.7-2.5l-2.1-1.6l2.6-0.1zM124.9 297.4l0.9 2.5l2.6 0.1l-2.1 1.6l0.7 2.5l-2.2-1.5l-2.2 1.5l0.7-2.5l-2.1-1.6l2.6-0.1zM122.4 281.9l0.9 2.5l2.6 0.1l-2.1 1.6l0.7 2.5l-2.2-1.5l-2.2 1.5l0.7-2.5l-2.1-1.6l2.6-0.1zM131.3 302.5l0.9 2.5l2.6 0.1l-2.1 1.6l0.7 2.5l-2.2-1.5l-2.2 1.5l0.7-2.5l-2.1-1.6l2.6-0.1zM90.1 281.6l0.9 2.5l2.6 0.1l-2.1 1.6l0.7 2.5l-2.2-1.5l-2.2 1.5l0.7-2.5l-2.1-1.6l2.6-0.1zM111.7 291.8l0.9 2.5l2.6 0.1l-2.1 1.6l0.7 2.5l-2.2-1.5l-2.2 1.5l0.7-2.5l-2.1-1.6l2.6-0.1zM134.1 314.2l0.9 2.5l2.6 0.1l-2.1 1.6l0.7 2.5l-2.2-1.5l-2.2 1.5l0.7-2.5l-2.1-1.6l2.6-0.1zM112 304.9l0.9 2.5l2.6 0.1l-2.1 1.6l0.7 2.5l-2.2-1.5l-2.2 1.5l0.7-2.5l-2.1-1.6l2.6-0.1zM167.9 318.8l0.9 2.5l2.6 0.1l-2.1 1.6l0.7 2.5l-2.2-1.5l-2.2 1.5l0.7-2.5l-2.1-1.6l2.6-0.1zM118.1 313.7l0.9 2.5l2.6 0.1l-2.1 1.6l0.7 2.5l-2.2-1.5l-2.2 1.5l0.7-2.5l-2.1-1.6l2.6-0.1zM123.8 306.2l0.9 2.5l2.6 0.1l-2.1 1.6l0.7 2.5l-2.2-1.5l-2.2 1.5l0.7-2.5l-2.1-1.6l2.6-0.1zM128.4 305.1l0.9 2.5l2.6 0.1l-2.1 1.6l0.7 2.5l-2.2-1.5l-2.2 1.5l0.7-2.5l-2.1-1.6l2.6-0.1zM121.4 307.9l0.9 2.5l2.6 0.1l-2.1 1.6l0.7 2.5l-2.2-1.5l-2.2 1.5l0.7-2.5l-2.1-1.6l2.6-0.1zM170.4 341.7l0.9 2.5l2.6 0.1l-2.1 1.6l0.7 2.5l-2.2-1.5l-2.2 1.5l0.7-2.5l-2.1-1.6l2.6-0.1zM87 294.3l0.9 2.5l2.6 0.1l-2.1 1.6l0.7 2.5l-2.2-1.5l-2.2 1.5l0.7-2.5l-2.1-1.6l2.6-0.1zM146.5 297.6l0.9 2.5l2.6 0.1l-2.1 1.6l0.7 2.5l-2.2-1.5l-2.2 1.5l0.7-2.5l-2.1-1.6l2.6-0.1zM122 304.7l0.9 2.5l2.6 0.1l-2.1 1.6l0.7 2.5l-2.2-1.5l-2.2 1.5l0.7-2.5l-2.1-1.6l2.6-0.1zM139.3 326.1l0.9 2.5l2.6 0.1l-2.1 1.6l0.7 2.5l-2.2-1.5l-2.2 1.5l0.7-2.5l-2.1-1.6l2.6-0.1zM128.7 322.6l0.9 2.5l2.6 0.1l-2.1 1.6l0.7 2.5l-2.2-1.5l-2.2 1.5l0.7-2.5l-2.1-1.6l2.6-0.1zM135.7 309.4l0.9 2.5l2.6 0.1l-2.1 1.6l0.7 2.5l-2.2-1.5l-2.2 1.5l0.7-2.5l-2.1-1.6l2.6-0.1zM185.2 340l0.9 2.5l2.6 0.1l-2.1 1.6l0.7 2.5l-2.2-1.5l-2.2 1.5l0.7-2.5l-2.1-1.6l2.6-0.1zM99.8 319.2l0.9 2.5l2.6 0.1l-2.1 1.6l0.7 2.5l-2.2-1.5l-2.2 1.5l0.7-2.5l-2.1-1.6l2.6-0.1zM107.8 302l0.9 2.5l2.6 0.1l-2.1 1.6l0.7 2.5l-2.2-1.5l-2.2 1.5l0.7-2.5l-2.1-1.6l2.6-0.1zM90.5 278.5l0.9 2.5l2.6 0.1l-2.1 1.6l0.7 2.5l-2.2-1.5l-2.2 1.5l0.7-2.5l-2.1-1.6l2.6-0.1zM121.1 316.9l0.9 2.5l2.6 0.1l-2.1 1.6l0.7 2.5l-2.2-1.5l-2.2 1.5l0.7-2.5l-2.1-1.6l2.6-0.1zM89.9 283.7l0.9 2.5l2.6 0.1l-2.1 1.6l0.7 2.5l-2.2-1.5l-2.2 1.5l0.7-2.5l-2.1-1.6l2.6-0.1zM123.7 308l0.9 2.5l2.6 0.1l-2.1 1.6l0.7 2.5l-2.2-1.5l-2.2 1.5l0.7-2.5l-2.1-1.6l2.6-0.1zM103.2 288.1l0.9 2.5l2.6 0.1l-2.1 1.6l0.7 2.5l-2.2-1.5l-2.2 1.5l0.7-2.5l-2.1-1.6l2.6-0.1zM158.2 338.5l0.9 2.5l2.6 0.1l-2.1 1.6l0.7 2.5l-2.2-1.5l-2.2 1.5l0.7-2.5l-2.1-1.6l2.6-0.1zM99.8 297.1l0.9 2.5l2.6 0.1l-2.1 1.6l0.7 2.5l-2.2-1.5l-2.2 1.5l0.7-2.5l-2.1-1.6l2.6-0.1zM164.8 319.3l0.9 2.5l2.6 0.1l-2.1 1.6l0.7 2.5l-2.2-1.5l-2.2 1.5l0.7-2.5l-2.1-1.6l2.6-0.1zM128.7 304.7l0.9 2.5l2.6 0.1l-2.1 1.6l0.7 2.5l-2.2-1.5l-2.2 1.5l0.7-2.5l-2.1-1.6l2.6-0.1zM105.4 307.2l0.9 2.5l2.6 0.1l-2.1 1.6l0.7 2.5l-2.2-1.5l-2.2 1.5l0.7-2.5l-2.1-1.6l2.6-0.1zM141 322.3l0.9 2.5l2.6 0.1l-2.1 1.6l0.7 2.5l-2.2-1.5l-2.2 1.5l0.7-2.5l-2.1-1.6l2.6-0.1zM168.2 340.3l0.9 2.5l2.6 0.1l-2.1 1.6l0.7 2.5l-2.2-1.5l-2.2 1.5l0.7-2.5l-2.1-1.6l2.6-0.1zM171.6 346.3l0.9 2.5l2.6 0.1l-2.1 1.6l0.7 2.5l-2.2-1.5l-2.2 1.5l0.7-2.5l-2.1-1.6l2.6-0.1zM103.5 289.9l0.9 2.5l2.6 0.1l-2.1 1.6l0.7 2.5l-2.2-1.5l-2.2 1.5l0.7-2.5l-2.1-1.6l2.6-0.1zM124.3 316l0.9 2.5l2.6 0.1l-2.1 1.6l0.7 2.5l-2.2-1.5l-2.2 1.5l0.7-2.5l-2.1-1.6l2.6-0.1zM164.5 337.5l0.9 2.5l2.6 0.1l-2.1 1.6l0.7 2.5l-2.2-1.5l-2.2 1.5l0.7-2.5l-2.1-1.6l2.6-0.1zM82.8 293.4l0.9 2.5l2.6 0.1l-2.1 1.6l0.7 2.5l-2.2-1.5l-2.2 1.5l0.7-2.5l-2.1-1.6l2.6-0.1zM111.8 308l0.9 2.5l2.6 0.1l-2.1 1.6l0.7 2.5l-2.2-1.5l-2.2 1.5l0.7-2.5l-2.1-1.6l2.6-0.1zM146.4 313.8l0.9 2.5l2.6 0.1l-2.1 1.6l0.7 2.5l-2.2-1.5l-2.2 1.5l0.7-2.5l-2.1-1.6l2.6-0.1zM114 293.8l0.9 2.5l2.6 0.1l-2.1 1.6l0.7 2.5l-2.2-1.5l-2.2 1.5l0.7-2.5l-2.1-1.6l2.6-0.1zM91.7 287.7l0.9 2.5l2.6 0.1l-2.1 1.6l0.7 2.5l-2.2-1.5l-2.2 1.5l0.7-2.5l-2.1-1.6l2.6-0.1zM128.5 314.4l0.9 2.5l2.6 0.1l-2.1 1.6l0.7 2.5l-2.2-1.5l-2.2 1.5l0.7-2.5l-2.1-1.6l2.6-0.1zM163.5 332.9l0.9 2.5l2.6 0.1l-2.1 1.6l0.7 2.5l-2.2-1.5l-2.2 1.5l0.7-2.5l-2.1-1.6l2.6-0.1zM125.1 314.3l0.9 2.5l2.6 0.1l-2.1 1.6l0.7 2.5l-2.2-1.5l-2.2 1.5l0.7-2.5l-2.1-1.6l2.6-0.1zM125.9 308.2l0.9 2.5l2.6 0.1l-2.1 1.6l0.7 2.5l-2.2-1.5l-2.2 1.5l0.7-2.5l-2.1-1.6l2.6-0.1zM77.7 287.5l0.9 2.5l2.6 0.1l-2.1 1.6l0.7 2.5l-2.2-1.5l-2.2 1.5l0.7-2.5l-2.1-1.6l2.6-0.1zM117.9 306.5l0.9 2.5l2.6 0.1l-2.1 1.6l0.7 2.5l-2.2-1.5l-2.2 1.5l0.7-2.5l-2.1-1.6l2.6-0.1zM115.3 318l0.9 2.5l2.6 0.1l-2.1 1.6l0.7 2.5l-2.2-1.5l-2.2 1.5l0.7-2.5l-2.1-1.6l2.6-0.1zM120.7 295.4l0.9 2.5l2.6 0.1l-2.1 1.6l0.7 2.5l-2.2-1.5l-2.2 1.5l0.7-2.5l-2.1-1.6l2.6-0.1zM192.7 344.3l0.9 2.5l2.6 0.1l-2.1 1.6l0.7 2.5l-2.2-1.5l-2.2 1.5l0.7-2.5l-2.1-1.6l2.6-0.1zM157.4 318.1l0.9 2.5l2.6 0.1l-2.1 1.6l0.7 2.5l-2.2-1.5l-2.2 1.5l0.7-2.5l-2.1-1.6l2.6-0.1zM150 334.6l0.9 2.5l2.6 0.1l-2.1 1.6l0.7 2.5l-2.2-1.5l-2.2 1.5l0.7-2.5l-2.1-1.6l2.6-0.1zM107.9 300.6l0.9 2.5l2.6 0.1l-2.1 1.6l0.7 2.5l-2.2-1.5l-2.2 1.5l0.7-2.5l-2.1-1.6l2.6-0.1zM110.4 318.9l0.9 2.5l2.6 0.1l-2.1 1.6l0.7 2.5l-2.2-1.5l-2.2 1.5l0.7-2.5l-2.1-1.6l2.6-0.1zM121.5 294.4l0.9 2.5l2.6 0.1l-2.1 1.6l0.7 2.5l-2.2-1.5l-2.2 1.5l0.7-2.5l-2.1-1.6l2.6-0.1zM140.8 311.7l0.9 2.5l2.6 0.1l-2.1 1.6l0.7 2.5l-2.2-1.5l-2.2 1.5l0.7-2.5l-2.1-1.6l2.6-0.1zM79.4 277.8l0.9 2.5l2.6 0.1l-2.1 1.6l0.7 2.5l-2.2-1.5l-2.2 1.5l0.7-2.5l-2.1-1.6l2.6-0.1zM146.1 321.1l0.9 2.5l2.6 0.1l-2.1 1.6l0.7 2.5l-2.2-1.5l-2.2 1.5l0.7-2.5l-2.1-1.6l2.6-0.1zM165 325.3l0.9 2.5l2.6 0.1l-2.1 1.6l0.7 2.5l-2.2-1.5l-2.2 1.5l0.7-2.5l-2.1-1.6l2.6-0.1zM95.1 289.9l0.9 2.5l2.6 0.1l-2.1 1.6l0.7 2.5l-2.2-1.5l-2.2 1.5l0.7-2.5l-2.1-1.6l2.6-0.1zM94.9 281.2l0.9 2.5l2.6 0.1l-2.1 1.6l0.7 2.5l-2.2-1.5l-2.2 1.5l0.7-2.5l-2.1-1.6l2.6-0.1zM118.9 298.4l0.9 2.5l2.6 0.1l-2.1 1.6l0.7 2.5l-2.2-1.5l-2.2 1.5l0.7-2.5l-2.1-1.6l2.6-0.1zM129.6 291.1l0.9 2.5l2.6 0.1l-2.1 1.6l0.7 2.5l-2.2-1.5l-2.2 1.5l0.7-2.5l-2.1-1.6l2.6-0.1zM162.7 326.8l0.9 2.5l2.6 0.1l-2.1 1.6l0.7 2.5l-2.2-1.5l-2.2 1.5l0.7-2.5l-2.1-1.6l2.6-0.1zM120.1 310.8l0.9 2.5l2.6 0.1l-2.1 1.6l0.7 2.5l-2.2-1.5l-2.2 1.5l0.7-2.5l-2.1-1.6l2.6-0.1zM153.2 341.9l0.9 2.5l2.6 0.1l-2.1 1.6l0.7 2.5l-2.2-1.5l-2.2 1.5l0.7-2.5l-2.1-1.6l2.6-0.1zM91.8 301.4l0.9 2.5l2.6 0.1l-2.1 1.6l0.7 2.5l-2.2-1.5l-2.2 1.5l0.7-2.5l-2.1-1.6l2.6-0.1zM86.5 279.3l0.9 2.5l2.6 0.1l-2.1 1.6l0.7 2.5l-2.2-1.5l-2.2 1.5l0.7-2.5l-2.1-1.6l2.6-0.1zM158 312.3l0.9 2.5l2.6 0.1l-2.1 1.6l0.7 2.5l-2.2-1.5l-2.2 1.5l0.7-2.5l-2.1-1.6l2.6-0.1zM150 329.3l0.9 2.5l2.6 0.1l-2.1 1.6l0.7 2.5l-2.2-1.5l-2.2 1.5l0.7-2.5l-2.1-1.6l2.6-0.1zM119.1 295.4l0.9 2.5l2.6 0.1l-2.1 1.6l0.7 2.5l-2.2-1.5l-2.2 1.5l0.7-2.5l-2.1-1.6l2.6-0.1zM155.2 329.3l0.9 2.5l2.6 0.1l-2.1 1.6l0.7 2.5l-2.2-1.5l-2.2 1.5l0.7-2.5l-2.1-1.6l2.6-0.1zM130.2 320.7l0.9 2.5l2.6 0.1l-2.1 1.6l0.7 2.5l-2.2-1.5l-2.2 1.5l0.7-2.5l-2.1-1.6l2.6-0.1zM137.2 308.6l0.9 2.5l2.6 0.1l-2.1 1.6l0.7 2.5l-2.2-1.5l-2.2 1.5l0.7-2.5l-2.1-1.6l2.6-0.1zM100.9 300.5l0.9 2.5l2.6 0.1l-2.1 1.6l0.7 2.5l-2.2-1.5l-2.2 1.5l0.7-2.5l-2.1-1.6l2.6-0.1zM100.8 311.7l0.9 2.5l2.6 0.1l-2.1 1.6l0.7 2.5l-2.2-1.5l-2.2 1.5l0.7-2.5l-2.1-1.6l2.6-0.1zM116.1 323.4l0.9 2.5l2.6 0.1l-2.1 1.6l0.7 2.5l-2.2-1.5l-2.2 1.5l0.7-2.5l-2.1-1.6l2.6-0.1zM103.6 282.1l0.9 2.5l2.6 0.1l-2.1 1.6l0.7 2.5l-2.2-1.5l-2.2 1.5l0.7-2.5l-2.1-1.6l2.6-0.1zM114.6 303.1l0.9 2.5l2.6 0.1l-2.1 1.6l0.7 2.5l-2.2-1.5l-2.2 1.5l0.7-2.5l-2.1-1.6l2.6-0.1zM111.6 303.6l0.9 2.5l2.6 0.1l-2.1 1.6l0.7 2.5l-2.2-1.5l-2.2 1.5l0.7-2.5l-2.1-1.6l2.6-0.1zM136.1 315.5l0.9 2.5l2.6 0.1l-2.1 1.6l0.7 2.5l-2.2-1.5l-2.2 1.5l0.7-2.5l-2.1-1.6l2.6-0.1zM110.9 286.4l0.9 2.5l2.6 0.1l-2.1 1.6l0.7 2.5l-2.2-1.5l-2.2 1.5l0.7-2.5l-2.1-1.6l2.6-0.1zM94.8 295.5l0.9 2.5l2.6 0.1l-2.1 1.6l0.7 2.5l-2.2-1.5l-2.2 1.5l0.7-2.5l-2.1-1.6l2.6-0.1zM126.5 289.6l0.9 2.5l2.6 0.1l-2.1 1.6l0.7 2.5l-2.2-1.5l-2.2 1.5l0.7-2.5l-2.1-1.6l2.6-0.1zM141.6 312.3l0.9 2.5l2.6 0.1l-2.1 1.6l0.7 2.5l-2.2-1.5l-2.2 1.5l0.7-2.5l-2.1-1.6l2.6-0.1zM150.3 308.1l0.9 2.5l2.6 0.1l-2.1 1.6l0.7 2.5l-2.2-1.5l-2.2 1.5l0.7-2.5l-2.1-1.6l2.6-0.1zM109.1 299.2l0.9 2.5l2.6 0.1l-2.1 1.6l0.7 2.5l-2.2-1.5l-2.2 1.5l0.7-2.5l-2.1-1.6l2.6-0.1zM155.6 321.2l0.9 2.5l2.6 0.1l-2.1 1.6l0.7 2.5l-2.2-1.5l-2.2 1.5l0.7-2.5l-2.1-1.6l2.6-0.1zM145.9 319.2l0.9 2.5l2.6 0.1l-2.1 1.6l0.7 2.5l-2.2-1.5l-2.2 1.5l0.7-2.5l-2.1-1.6l2.6-0.1zM126.9 314.5l0.9 2.5l2.6 0.1l-2.1 1.6l0.7 2.5l-2.2-1.5l-2.2 1.5l0.7-2.5l-2.1-1.6l2.6-0.1zM121.8 293.1l0.9 2.5l2.6 0.1l-2.1 1.6l0.7 2.5l-2.2-1.5l-2.2 1.5l0.7-2.5l-2.1-1.6l2.6-0.1zM169.9 328.9l0.9 2.5l2.6 0.1l-2.1 1.6l0.7 2.5l-2.2-1.5l-2.2 1.5l0.7-2.5l-2.1-1.6l2.6-0.1zM154.3 318.9l0.9 2.5l2.6 0.1l-2.1 1.6l0.7 2.5l-2.2-1.5l-2.2 1.5l0.7-2.5l-2.1-1.6l2.6-0.1zM142.1 320.6l0.9 2.5l2.6 0.1l-2.1 1.6l0.7 2.5l-2.2-1.5l-2.2 1.5l0.7-2.5l-2.1-1.6l2.6-0.1zM82.5 285l0.9 2.5l2.6 0.1l-2.1 1.6l0.7 2.5l-2.2-1.5l-2.2 1.5l0.7-2.5l-2.1-1.6l2.6-0.1zM114.2 290.4l0.9 2.5l2.6 0.1l-2.1 1.6l0.7 2.5l-2.2-1.5l-2.2 1.5l0.7-2.5l-2.1-1.6l2.6-0.1zM153.5 316.4l0.9 2.5l2.6 0.1l-2.1 1.6l0.7 2.5l-2.2-1.5l-2.2 1.5l0.7-2.5l-2.1-1.6l2.6-0.1zM98.8 279.2l0.9 2.5l2.6 0.1l-2.1 1.6l0.7 2.5l-2.2-1.5l-2.2 1.5l0.7-2.5l-2.1-1.6l2.6-0.1zM173.7 324.7l0.9 2.5l2.6 0.1l-2.1 1.6l0.7 2.5l-2.2-1.5l-2.2 1.5l0.7-2.5l-2.1-1.6l2.6-0.1zM94.7 291.4l0.9 2.5l2.6 0.1l-2.1 1.6l0.7 2.5l-2.2-1.5l-2.2 1.5l0.7-2.5l-2.1-1.6l2.6-0.1zM131.7 306.9l0.9 2.5l2.6 0.1l-2.1 1.6l0.7 2.5l-2.2-1.5l-2.2 1.5l0.7-2.5l-2.1-1.6l2.6-0.1zM140.1 322.4l0.9 2.5l2.6 0.1l-2.1 1.6l0.7 2.5l-2.2-1.5l-2.2 1.5l0.7-2.5l-2.1-1.6l2.6-0.1zM93.3 295.4l0.9 2.5l2.6 0.1l-2.1 1.6l0.7 2.5l-2.2-1.5l-2.2 1.5l0.7-2.5l-2.1-1.6l2.6-0.1zM90.8 301.6l0.9 2.5l2.6 0.1l-2.1 1.6l0.7 2.5l-2.2-1.5l-2.2 1.5l0.7-2.5l-2.1-1.6l2.6-0.1zM123.5 304.3l0.9 2.5l2.6 0.1l-2.1 1.6l0.7 2.5l-2.2-1.5l-2.2 1.5l0.7-2.5l-2.1-1.6l2.6-0.1zM118.6 309.3l0.9 2.5l2.6 0.1l-2.1 1.6l0.7 2.5l-2.2-1.5l-2.2 1.5l0.7-2.5l-2.1-1.6l2.6-0.1zM135.5 299.9l0.9 2.5l2.6 0.1l-2.1 1.6l0.7 2.5l-2.2-1.5l-2.2 1.5l0.7-2.5l-2.1-1.6l2.6-0.1zM186.5 338.5l0.9 2.5l2.6 0.1l-2.1 1.6l0.7 2.5l-2.2-1.5l-2.2 1.5l0.7-2.5l-2.1-1.6l2.6-0.1zM100.7 291.1l0.9 2.5l2.6 0.1l-2.1 1.6l0.7 2.5l-2.2-1.5l-2.2 1.5l0.7-2.5l-2.1-1.6l2.6-0.1zM142.7 330.1l0.9 2.5l2.6 0.1l-2.1 1.6l0.7 2.5l-2.2-1.5l-2.2 1.5l0.7-2.5l-2.1-1.6l2.6-0.1zM143.2 302.3l0.9 2.5l2.6 0.1l-2.1 1.6l0.7 2.5l-2.2-1.5l-2.2 1.5l0.7-2.5l-2.1-1.6l2.6-0.1zM124.4 299.6l0.9 2.5l2.6 0.1l-2.1 1.6l0.7 2.5l-2.2-1.5l-2.2 1.5l0.7-2.5l-2.1-1.6l2.6-0.1zM95.6 304.8l0.9 2.5l2.6 0.1l-2.1 1.6l0.7 2.5l-2.2-1.5l-2.2 1.5l0.7-2.5l-2.1-1.6l2.6-0.1zM144.6 322.9l0.9 2.5l2.6 0.1l-2.1 1.6l0.7 2.5l-2.2-1.5l-2.2 1.5l0.7-2.5l-2.1-1.6l2.6-0.1zM127.3 318.8l0.9 2.5l2.6 0.1l-2.1 1.6l0.7 2.5l-2.2-1.5l-2.2 1.5l0.7-2.5l-2.1-1.6l2.6-0.1zM132.4 298.2l0.9 2.5l2.6 0.1l-2.1 1.6l0.7 2.5l-2.2-1.5l-2.2 1.5l0.7-2.5l-2.1-1.6l2.6-0.1zM101.6 308.2l0.9 2.5l2.6 0.1l-2.1 1.6l0.7 2.5l-2.2-1.5l-2.2 1.5l0.7-2.5l-2.1-1.6l2.6-0.1zM147.3 320.2l0.9 2.5l2.6 0.1l-2.1 1.6l0.7 2.5l-2.2-1.5l-2.2 1.5l0.7-2.5l-2.1-1.6l2.6-0.1zM162.8 323.9l0.9 2.5l2.6 0.1l-2.1 1.6l0.7 2.5l-2.2-1.5l-2.2 1.5l0.7-2.5l-2.1-1.6l2.6-0.1zM108.4 301.1l0.9 2.5l2.6 0.1l-2.1 1.6l0.7 2.5l-2.2-1.5l-2.2 1.5l0.7-2.5l-2.1-1.6l2.6-0.1zM122 312.1l0.9 2.5l2.6 0.1l-2.1 1.6l0.7 2.5l-2.2-1.5l-2.2 1.5l0.7-2.5l-2.1-1.6l2.6-0.1zM75.4 287.4l0.9 2.5l2.6 0.1l-2.1 1.6l0.7 2.5l-2.2-1.5l-2.2 1.5l0.7-2.5l-2.1-1.6l2.6-0.1zM130 294l0.9 2.5l2.6 0.1l-2.1 1.6l0.7 2.5l-2.2-1.5l-2.2 1.5l0.7-2.5l-2.1-1.6l2.6-0.1zM108.2 284.9l0.9 2.5l2.6 0.1l-2.1 1.6l0.7 2.5l-2.2-1.5l-2.2 1.5l0.7-2.5l-2.1-1.6l2.6-0.1zM116.6 299.8l0.9 2.5l2.6 0.1l-2.1 1.6l0.7 2.5l-2.2-1.5l-2.2 1.5l0.7-2.5l-2.1-1.6l2.6-0.1zM155.2 326.1l0.9 2.5l2.6 0.1l-2.1 1.6l0.7 2.5l-2.2-1.5l-2.2 1.5l0.7-2.5l-2.1-1.6l2.6-0.1zM158.2 314.8l0.9 2.5l2.6 0.1l-2.1 1.6l0.7 2.5l-2.2-1.5l-2.2 1.5l0.7-2.5l-2.1-1.6l2.6-0.1zM172.2 346.4l0.9 2.5l2.6 0.1l-2.1 1.6l0.7 2.5l-2.2-1.5l-2.2 1.5l0.7-2.5l-2.1-1.6l2.6-0.1zM83.3 306.8l0.9 2.5l2.6 0.1l-2.1 1.6l0.7 2.5l-2.2-1.5l-2.2 1.5l0.7-2.5l-2.1-1.6l2.6-0.1zM94.2 302.3l0.9 2.5l2.6 0.1l-2.1 1.6l0.7 2.5l-2.2-1.5l-2.2 1.5l0.7-2.5l-2.1-1.6l2.6-0.1zM105.3 305l0.9 2.5l2.6 0.1l-2.1 1.6l0.7 2.5l-2.2-1.5l-2.2 1.5l0.7-2.5l-2.1-1.6l2.6-0.1zM146.5 311.5l0.9 2.5l2.6 0.1l-2.1 1.6l0.7 2.5l-2.2-1.5l-2.2 1.5l0.7-2.5l-2.1-1.6l2.6-0.1zM135.5 318.2l0.9 2.5l2.6 0.1l-2.1 1.6l0.7 2.5l-2.2-1.5l-2.2 1.5l0.7-2.5l-2.1-1.6l2.6-0.1zM188 341.6l0.9 2.5l2.6 0.1l-2.1 1.6l0.7 2.5l-2.2-1.5l-2.2 1.5l0.7-2.5l-2.1-1.6l2.6-0.1zM139.2 312l0.9 2.5l2.6 0.1l-2.1 1.6l0.7 2.5l-2.2-1.5l-2.2 1.5l0.7-2.5l-2.1-1.6l2.6-0.1zM125.6 300l0.9 2.5l2.6 0.1l-2.1 1.6l0.7 2.5l-2.2-1.5l-2.2 1.5l0.7-2.5l-2.1-1.6l2.6-0.1zM188.3 353.9l0.9 2.5l2.6 0.1l-2.1 1.6l0.7 2.5l-2.2-1.5l-2.2 1.5l0.7-2.5l-2.1-1.6l2.6-0.1zM140.5 313.8l0.9 2.5l2.6 0.1l-2.1 1.6l0.7 2.5l-2.2-1.5l-2.2 1.5l0.7-2.5l-2.1-1.6l2.6-0.1zM166.7 321.1l0.9 2.5l2.6 0.1l-2.1 1.6l0.7 2.5l-2.2-1.5l-2.2 1.5l0.7-2.5l-2.1-1.6l2.6-0.1zM92.4 296.2l0.9 2.5l2.6 0.1l-2.1 1.6l0.7 2.5l-2.2-1.5l-2.2 1.5l0.7-2.5l-2.1-1.6l2.6-0.1zM127.2 296.4l0.9 2.5l2.6 0.1l-2.1 1.6l0.7 2.5l-2.2-1.5l-2.2 1.5l0.7-2.5l-2.1-1.6l2.6-0.1zM150.8 320.9l0.9 2.5l2.6 0.1l-2.1 1.6l0.7 2.5l-2.2-1.5l-2.2 1.5l0.7-2.5l-2.1-1.6l2.6-0.1zM168.7 342.2l0.9 2.5l2.6 0.1l-2.1 1.6l0.7 2.5l-2.2-1.5l-2.2 1.5l0.7-2.5l-2.1-1.6l2.6-0.1zM128.7 318.3l0.9 2.5l2.6 0.1l-2.1 1.6l0.7 2.5l-2.2-1.5l-2.2 1.5l0.7-2.5l-2.1-1.6l2.6-0.1zM133.9 306.1l0.9 2.5l2.6 0.1l-2.1 1.6l0.7 2.5l-2.2-1.5l-2.2 1.5l0.7-2.5l-2.1-1.6l2.6-0.1zM155.5 312.3l0.9 2.5l2.6 0.1l-2.1 1.6l0.7 2.5l-2.2-1.5l-2.2 1.5l0.7-2.5l-2.1-1.6l2.6-0.1zM129.1 311l0.9 2.5l2.6 0.1l-2.1 1.6l0.7 2.5l-2.2-1.5l-2.2 1.5l0.7-2.5l-2.1-1.6l2.6-0.1zM100 283.7l0.9 2.5l2.6 0.1l-2.1 1.6l0.7 2.5l-2.2-1.5l-2.2 1.5l0.7-2.5l-2.1-1.6l2.6-0.1zM142.3 301.9l0.9 2.5l2.6 0.1l-2.1 1.6l0.7 2.5l-2.2-1.5l-2.2 1.5l0.7-2.5l-2.1-1.6l2.6-0.1zM108.4 283.2l0.9 2.5l2.6 0.1l-2.1 1.6l0.7 2.5l-2.2-1.5l-2.2 1.5l0.7-2.5l-2.1-1.6l2.6-0.1zM138.3 313.2l0.9 2.5l2.6 0.1l-2.1 1.6l0.7 2.5l-2.2-1.5l-2.2 1.5l0.7-2.5l-2.1-1.6l2.6-0.1zM84.8 291.1l0.9 2.5l2.6 0.1l-2.1 1.6l0.7 2.5l-2.2-1.5l-2.2 1.5l0.7-2.5l-2.1-1.6l2.6-0.1zM160.8 336.9l0.9 2.5l2.6 0.1l-2.1 1.6l0.7 2.5l-2.2-1.5l-2.2 1.5l0.7-2.5l-2.1-1.6l2.6-0.1zM174.1 332.2l0.9 2.5l2.6 0.1l-2.1 1.6l0.7 2.5l-2.2-1.5l-2.2 1.5l0.7-2.5l-2.1-1.6l2.6-0.1zM111 292.8l0.9 2.5l2.6 0.1l-2.1 1.6l0.7 2.5l-2.2-1.5l-2.2 1.5l0.7-2.5l-2.1-1.6l2.6-0.1zM114.1 312.2l0.9 2.5l2.6 0.1l-2.1 1.6l0.7 2.5l-2.2-1.5l-2.2 1.5l0.7-2.5l-2.1-1.6l2.6-0.1zM110.8 316.8l0.9 2.5l2.6 0.1l-2.1 1.6l0.7 2.5l-2.2-1.5l-2.2 1.5l0.7-2.5l-2.1-1.6l2.6-0.1zM170.9 322.4l0.9 2.5l2.6 0.1l-2.1 1.6l0.7 2.5l-2.2-1.5l-2.2 1.5l0.7-2.5l-2.1-1.6l2.6-0.1zM165.5 312.7l0.9 2.5l2.6 0.1l-2.1 1.6l0.7 2.5l-2.2-1.5l-2.2 1.5l0.7-2.5l-2.1-1.6l2.6-0.1zM146.6 325.8l0.9 2.5l2.6 0.1l-2.1 1.6l0.7 2.5l-2.2-1.5l-2.2 1.5l0.7-2.5l-2.1-1.6l2.6-0.1zM137.2 296l0.9 2.5l2.6 0.1l-2.1 1.6l0.7 2.5l-2.2-1.5l-2.2 1.5l0.7-2.5l-2.1-1.6l2.6-0.1zM144.4 313.3l0.9 2.5l2.6 0.1l-2.1 1.6l0.7 2.5l-2.2-1.5l-2.2 1.5l0.7-2.5l-2.1-1.6l2.6-0.1zM175.1 338.9l0.9 2.5l2.6 0.1l-2.1 1.6l0.7 2.5l-2.2-1.5l-2.2 1.5l0.7-2.5l-2.1-1.6l2.6-0.1zM144.4 308.4l0.9 2.5l2.6 0.1l-2.1 1.6l0.7 2.5l-2.2-1.5l-2.2 1.5l0.7-2.5l-2.1-1.6l2.6-0.1zM95.4 290.6l0.9 2.5l2.6 0.1l-2.1 1.6l0.7 2.5l-2.2-1.5l-2.2 1.5l0.7-2.5l-2.1-1.6l2.6-0.1zM141.1 327l0.9 2.5l2.6 0.1l-2.1 1.6l0.7 2.5l-2.2-1.5l-2.2 1.5l0.7-2.5l-2.1-1.6l2.6-0.1zM145.2 334.3l0.9 2.5l2.6 0.1l-2.1 1.6l0.7 2.5l-2.2-1.5l-2.2 1.5l0.7-2.5l-2.1-1.6l2.6-0.1zM162 323.1l0.9 2.5l2.6 0.1l-2.1 1.6l0.7 2.5l-2.2-1.5l-2.2 1.5l0.7-2.5l-2.1-1.6l2.6-0.1zM89.8 294l0.9 2.5l2.6 0.1l-2.1 1.6l0.7 2.5l-2.2-1.5l-2.2 1.5l0.7-2.5l-2.1-1.6l2.6-0.1zM142 319.4l0.9 2.5l2.6 0.1l-2.1 1.6l0.7 2.5l-2.2-1.5l-2.2 1.5l0.7-2.5l-2.1-1.6l2.6-0.1zM90.6 283l0.9 2.5l2.6 0.1l-2.1 1.6l0.7 2.5l-2.2-1.5l-2.2 1.5l0.7-2.5l-2.1-1.6l2.6-0.1zM124.2 305.2l0.9 2.5l2.6 0.1l-2.1 1.6l0.7 2.5l-2.2-1.5l-2.2 1.5l0.7-2.5l-2.1-1.6l2.6-0.1zM180.1 330.1l0.9 2.5l2.6 0.1l-2.1 1.6l0.7 2.5l-2.2-1.5l-2.2 1.5l0.7-2.5l-2.1-1.6l2.6-0.1zM115.8 301.2l0.9 2.5l2.6 0.1l-2.1 1.6l0.7 2.5l-2.2-1.5l-2.2 1.5l0.7-2.5l-2.1-1.6l2.6-0.1zM143.5 324.5l0.9 2.5l2.6 0.1l-2.1 1.6l0.7 2.5l-2.2-1.5l-2.2 1.5l0.7-2.5l-2.1-1.6l2.6-0.1zM180.1 334l0.9 2.5l2.6 0.1l-2.1 1.6l0.7 2.5l-2.2-1.5l-2.2 1.5l0.7-2.5l-2.1-1.6l2.6-0.1zM122.1 306.3l0.9 2.5l2.6 0.1l-2.1 1.6l0.7 2.5l-2.2-1.5l-2.2 1.5l0.7-2.5l-2.1-1.6l2.6-0.1zM122.4 323.2l0.9 2.5l2.6 0.1l-2.1 1.6l0.7 2.5l-2.2-1.5l-2.2 1.5l0.7-2.5l-2.1-1.6l2.6-0.1zM107.5 307.7l0.9 2.5l2.6 0.1l-2.1 1.6l0.7 2.5l-2.2-1.5l-2.2 1.5l0.7-2.5l-2.1-1.6l2.6-0.1zM113.5 295.8l0.9 2.5l2.6 0.1l-2.1 1.6l0.7 2.5l-2.2-1.5l-2.2 1.5l0.7-2.5l-2.1-1.6l2.6-0.1zM99.8 292.9l0.9 2.5l2.6 0.1l-2.1 1.6l0.7 2.5l-2.2-1.5l-2.2 1.5l0.7-2.5l-2.1-1.6l2.6-0.1zM98 285.7l0.9 2.5l2.6 0.1l-2.1 1.6l0.7 2.5l-2.2-1.5l-2.2 1.5l0.7-2.5l-2.1-1.6l2.6-0.1zM87.5 287.7l0.9 2.5l2.6 0.1l-2.1 1.6l0.7 2.5l-2.2-1.5l-2.2 1.5l0.7-2.5l-2.1-1.6l2.6-0.1zM86 292.3l0.9 2.5l2.6 0.1l-2.1 1.6l0.7 2.5l-2.2-1.5l-2.2 1.5l0.7-2.5l-2.1-1.6l2.6-0.1zM99.5 287.8l0.9 2.5l2.6 0.1l-2.1 1.6l0.7 2.5l-2.2-1.5l-2.2 1.5l0.7-2.5l-2.1-1.6l2.6-0.1zM124.7 296.8l0.9 2.5l2.6 0.1l-2.1 1.6l0.7 2.5l-2.2-1.5l-2.2 1.5l0.7-2.5l-2.1-1.6l2.6-0.1zM116.6 302.1l0.9 2.5l2.6 0.1l-2.1 1.6l0.7 2.5l-2.2-1.5l-2.2 1.5l0.7-2.5l-2.1-1.6l2.6-0.1zM122.6 315l0.9 2.5l2.6 0.1l-2.1 1.6l0.7 2.5l-2.2-1.5l-2.2 1.5l0.7-2.5l-2.1-1.6l2.6-0.1zM175.9 322.6l0.9 2.5l2.6 0.1l-2.1 1.6l0.7 2.5l-2.2-1.5l-2.2 1.5l0.7-2.5l-2.1-1.6l2.6-0.1zM104.3 306.6l0.9 2.5l2.6 0.1l-2.1 1.6l0.7 2.5l-2.2-1.5l-2.2 1.5l0.7-2.5l-2.1-1.6l2.6-0.1zM97.1 295.5l0.9 2.5l2.6 0.1l-2.1 1.6l0.7 2.5l-2.2-1.5l-2.2 1.5l0.7-2.5l-2.1-1.6l2.6-0.1zM132.6 308.6l0.9 2.5l2.6 0.1l-2.1 1.6l0.7 2.5l-2.2-1.5l-2.2 1.5l0.7-2.5l-2.1-1.6l2.6-0.1zM161.2 330.5l0.9 2.5l2.6 0.1l-2.1 1.6l0.7 2.5l-2.2-1.5l-2.2 1.5l0.7-2.5l-2.1-1.6l2.6-0.1zM154.2 325.6l0.9 2.5l2.6 0.1l-2.1 1.6l0.7 2.5l-2.2-1.5l-2.2 1.5l0.7-2.5l-2.1-1.6l2.6-0.1zM135.2 317.3l0.9 2.5l2.6 0.1l-2.1 1.6l0.7 2.5l-2.2-1.5l-2.2 1.5l0.7-2.5l-2.1-1.6l2.6-0.1zM109.9 293.6l0.9 2.5l2.6 0.1l-2.1 1.6l0.7 2.5l-2.2-1.5l-2.2 1.5l0.7-2.5l-2.1-1.6l2.6-0.1zM142.7 325.6l0.9 2.5l2.6 0.1l-2.1 1.6l0.7 2.5l-2.2-1.5l-2.2 1.5l0.7-2.5l-2.1-1.6l2.6-0.1zM108.9 300.2l0.9 2.5l2.6 0.1l-2.1 1.6l0.7 2.5l-2.2-1.5l-2.2 1.5l0.7-2.5l-2.1-1.6l2.6-0.1zM95.5 285l0.9 2.5l2.6 0.1l-2.1 1.6l0.7 2.5l-2.2-1.5l-2.2 1.5l0.7-2.5l-2.1-1.6l2.6-0.1zM129.6 292.7l0.9 2.5l2.6 0.1l-2.1 1.6l0.7 2.5l-2.2-1.5l-2.2 1.5l0.7-2.5l-2.1-1.6l2.6-0.1zM174.3 334.2l0.9 2.5l2.6 0.1l-2.1 1.6l0.7 2.5l-2.2-1.5l-2.2 1.5l0.7-2.5l-2.1-1.6l2.6-0.1zM84 296.1l0.9 2.5l2.6 0.1l-2.1 1.6l0.7 2.5l-2.2-1.5l-2.2 1.5l0.7-2.5l-2.1-1.6l2.6-0.1zM140.9 298l0.9 2.5l2.6 0.1l-2.1 1.6l0.7 2.5l-2.2-1.5l-2.2 1.5l0.7-2.5l-2.1-1.6l2.6-0.1zM102.4 296.5l0.9 2.5l2.6 0.1l-2.1 1.6l0.7 2.5l-2.2-1.5l-2.2 1.5l0.7-2.5l-2.1-1.6l2.6-0.1zM124.7 322.9l0.9 2.5l2.6 0.1l-2.1 1.6l0.7 2.5l-2.2-1.5l-2.2 1.5l0.7-2.5l-2.1-1.6l2.6-0.1zM131.7 316.4l0.9 2.5l2.6 0.1l-2.1 1.6l0.7 2.5l-2.2-1.5l-2.2 1.5l0.7-2.5l-2.1-1.6l2.6-0.1zM121.7 316.2l0.9 2.5l2.6 0.1l-2.1 1.6l0.7 2.5l-2.2-1.5l-2.2 1.5l0.7-2.5l-2.1-1.6l2.6-0.1zM79.2 295.6l0.9 2.5l2.6 0.1l-2.1 1.6l0.7 2.5l-2.2-1.5l-2.2 1.5l0.7-2.5l-2.1-1.6l2.6-0.1zM155.9 309.7l0.9 2.5l2.6 0.1l-2.1 1.6l0.7 2.5l-2.2-1.5l-2.2 1.5l0.7-2.5l-2.1-1.6l2.6-0.1zM137.7 310.7l0.9 2.5l2.6 0.1l-2.1 1.6l0.7 2.5l-2.2-1.5l-2.2 1.5l0.7-2.5l-2.1-1.6l2.6-0.1zM124.3 322.4l0.9 2.5l2.6 0.1l-2.1 1.6l0.7 2.5l-2.2-1.5l-2.2 1.5l0.7-2.5l-2.1-1.6l2.6-0.1zM98.9 284.1l0.9 2.5l2.6 0.1l-2.1 1.6l0.7 2.5l-2.2-1.5l-2.2 1.5l0.7-2.5l-2.1-1.6l2.6-0.1zM196.5 349.6l0.9 2.5l2.6 0.1l-2.1 1.6l0.7 2.5l-2.2-1.5l-2.2 1.5l0.7-2.5l-2.1-1.6l2.6-0.1zM105.8 299l0.9 2.5l2.6 0.1l-2.1 1.6l0.7 2.5l-2.2-1.5l-2.2 1.5l0.7-2.5l-2.1-1.6l2.6-0.1zM176.1 342l0.9 2.5l2.6 0.1l-2.1 1.6l0.7 2.5l-2.2-1.5l-2.2 1.5l0.7-2.5l-2.1-1.6l2.6-0.1zM105.4 308.4l0.9 2.5l2.6 0.1l-2.1 1.6l0.7 2.5l-2.2-1.5l-2.2 1.5l0.7-2.5l-2.1-1.6l2.6-0.1zM115.2 305.3l0.9 2.5l2.6 0.1l-2.1 1.6l0.7 2.5l-2.2-1.5l-2.2 1.5l0.7-2.5l-2.1-1.6l2.6-0.1zM117.6 319.5l0.9 2.5l2.6 0.1l-2.1 1.6l0.7 2.5l-2.2-1.5l-2.2 1.5l0.7-2.5l-2.1-1.6l2.6-0.1zM96.7 294.5l0.9 2.5l2.6 0.1l-2.1 1.6l0.7 2.5l-2.2-1.5l-2.2 1.5l0.7-2.5l-2.1-1.6l2.6-0.1zM104 290l0.9 2.5l2.6 0.1l-2.1 1.6l0.7 2.5l-2.2-1.5l-2.2 1.5l0.7-2.5l-2.1-1.6l2.6-0.1zM96.3 286.3l0.9 2.5l2.6 0.1l-2.1 1.6l0.7 2.5l-2.2-1.5l-2.2 1.5l0.7-2.5l-2.1-1.6l2.6-0.1zM118.1 307l0.9 2.5l2.6 0.1l-2.1 1.6l0.7 2.5l-2.2-1.5l-2.2 1.5l0.7-2.5l-2.1-1.6l2.6-0.1zM130.1 317.6l0.9 2.5l2.6 0.1l-2.1 1.6l0.7 2.5l-2.2-1.5l-2.2 1.5l0.7-2.5l-2.1-1.6l2.6-0.1zM126.9 326.4l0.9 2.5l2.6 0.1l-2.1 1.6l0.7 2.5l-2.2-1.5l-2.2 1.5l0.7-2.5l-2.1-1.6l2.6-0.1zM158.8 317.5l0.9 2.5l2.6 0.1l-2.1 1.6l0.7 2.5l-2.2-1.5l-2.2 1.5l0.7-2.5l-2.1-1.6l2.6-0.1zM92.6 279l0.9 2.5l2.6 0.1l-2.1 1.6l0.7 2.5l-2.2-1.5l-2.2 1.5l0.7-2.5l-2.1-1.6l2.6-0.1zM111 299.7l0.9 2.5l2.6 0.1l-2.1 1.6l0.7 2.5l-2.2-1.5l-2.2 1.5l0.7-2.5l-2.1-1.6l2.6-0.1zM122.6 321.9l0.9 2.5l2.6 0.1l-2.1 1.6l0.7 2.5l-2.2-1.5l-2.2 1.5l0.7-2.5l-2.1-1.6l2.6-0.1zM96.7 295.3l0.9 2.5l2.6 0.1l-2.1 1.6l0.7 2.5l-2.2-1.5l-2.2 1.5l0.7-2.5l-2.1-1.6l2.6-0.1zM108.5 296.5l0.9 2.5l2.6 0.1l-2.1 1.6l0.7 2.5l-2.2-1.5l-2.2 1.5l0.7-2.5l-2.1-1.6l2.6-0.1zM105.7 314.7l0.9 2.5l2.6 0.1l-2.1 1.6l0.7 2.5l-2.2-1.5l-2.2 1.5l0.7-2.5l-2.1-1.6l2.6-0.1zM139.4 319.9l0.9 2.5l2.6 0.1l-2.1 1.6l0.7 2.5l-2.2-1.5l-2.2 1.5l0.7-2.5l-2.1-1.6l2.6-0.1zM126.6 299.6l0.9 2.5l2.6 0.1l-2.1 1.6l0.7 2.5l-2.2-1.5l-2.2 1.5l0.7-2.5l-2.1-1.6l2.6-0.1zM158 313.2l0.9 2.5l2.6 0.1l-2.1 1.6l0.7 2.5l-2.2-1.5l-2.2 1.5l0.7-2.5l-2.1-1.6l2.6-0.1zM144.5 331.2l0.9 2.5l2.6 0.1l-2.1 1.6l0.7 2.5l-2.2-1.5l-2.2 1.5l0.7-2.5l-2.1-1.6l2.6-0.1zM131.9 320.1l0.9 2.5l2.6 0.1l-2.1 1.6l0.7 2.5l-2.2-1.5l-2.2 1.5l0.7-2.5l-2.1-1.6l2.6-0.1zM129.1 316.5l0.9 2.5l2.6 0.1l-2.1 1.6l0.7 2.5l-2.2-1.5l-2.2 1.5l0.7-2.5l-2.1-1.6l2.6-0.1zM130.7 331l0.9 2.5l2.6 0.1l-2.1 1.6l0.7 2.5l-2.2-1.5l-2.2 1.5l0.7-2.5l-2.1-1.6l2.6-0.1zM161.9 312.6l0.9 2.5l2.6 0.1l-2.1 1.6l0.7 2.5l-2.2-1.5l-2.2 1.5l0.7-2.5l-2.1-1.6l2.6-0.1zM112.4 314.6l0.9 2.5l2.6 0.1l-2.1 1.6l0.7 2.5l-2.2-1.5l-2.2 1.5l0.7-2.5l-2.1-1.6l2.6-0.1zM143.2 315l0.9 2.5l2.6 0.1l-2.1 1.6l0.7 2.5l-2.2-1.5l-2.2 1.5l0.7-2.5l-2.1-1.6l2.6-0.1zM179.4 340.3l0.9 2.5l2.6 0.1l-2.1 1.6l0.7 2.5l-2.2-1.5l-2.2 1.5l0.7-2.5l-2.1-1.6l2.6-0.1zM123.9 312.9l0.9 2.5l2.6 0.1l-2.1 1.6l0.7 2.5l-2.2-1.5l-2.2 1.5l0.7-2.5l-2.1-1.6l2.6-0.1zM75.6 290.2l0.9 2.5l2.6 0.1l-2.1 1.6l0.7 2.5l-2.2-1.5l-2.2 1.5l0.7-2.5l-2.1-1.6l2.6-0.1zM139 320.9l0.9 2.5l2.6 0.1l-2.1 1.6l0.7 2.5l-2.2-1.5l-2.2 1.5l0.7-2.5l-2.1-1.6l2.6-0.1zM117.1 298.1l0.9 2.5l2.6 0.1l-2.1 1.6l0.7 2.5l-2.2-1.5l-2.2 1.5l0.7-2.5l-2.1-1.6l2.6-0.1zM92.1 293.7l0.9 2.5l2.6 0.1l-2.1 1.6l0.7 2.5l-2.2-1.5l-2.2 1.5l0.7-2.5l-2.1-1.6l2.6-0.1zM103.6 302.1l0.9 2.5l2.6 0.1l-2.1 1.6l0.7 2.5l-2.2-1.5l-2.2 1.5l0.7-2.5l-2.1-1.6l2.6-0.1zM177.4 346.6l0.9 2.5l2.6 0.1l-2.1 1.6l0.7 2.5l-2.2-1.5l-2.2 1.5l0.7-2.5l-2.1-1.6l2.6-0.1zM157.9 314.5l0.9 2.5l2.6 0.1l-2.1 1.6l0.7 2.5l-2.2-1.5l-2.2 1.5l0.7-2.5l-2.1-1.6l2.6-0.1zM167.6 310.6l0.9 2.5l2.6 0.1l-2.1 1.6l0.7 2.5l-2.2-1.5l-2.2 1.5l0.7-2.5l-2.1-1.6l2.6-0.1zM171.1 340.3l0.9 2.5l2.6 0.1l-2.1 1.6l0.7 2.5l-2.2-1.5l-2.2 1.5l0.7-2.5l-2.1-1.6l2.6-0.1zM138.9 306.4l0.9 2.5l2.6 0.1l-2.1 1.6l0.7 2.5l-2.2-1.5l-2.2 1.5l0.7-2.5l-2.1-1.6l2.6-0.1zM146 314.7l0.9 2.5l2.6 0.1l-2.1 1.6l0.7 2.5l-2.2-1.5l-2.2 1.5l0.7-2.5l-2.1-1.6l2.6-0.1zM112.9 299.8l0.9 2.5l2.6 0.1l-2.1 1.6l0.7 2.5l-2.2-1.5l-2.2 1.5l0.7-2.5l-2.1-1.6l2.6-0.1zM87 291.5l0.9 2.5l2.6 0.1l-2.1 1.6l0.7 2.5l-2.2-1.5l-2.2 1.5l0.7-2.5l-2.1-1.6l2.6-0.1zM132 316.9l0.9 2.5l2.6 0.1l-2.1 1.6l0.7 2.5l-2.2-1.5l-2.2 1.5l0.7-2.5l-2.1-1.6l2.6-0.1zM174.8 341.9l0.9 2.5l2.6 0.1l-2.1 1.6l0.7 2.5l-2.2-1.5l-2.2 1.5l0.7-2.5l-2.1-1.6l2.6-0.1zM78.7 298l0.9 2.5l2.6 0.1l-2.1 1.6l0.7 2.5l-2.2-1.5l-2.2 1.5l0.7-2.5l-2.1-1.6l2.6-0.1zM89.7 302.1l0.9 2.5l2.6 0.1l-2.1 1.6l0.7 2.5l-2.2-1.5l-2.2 1.5l0.7-2.5l-2.1-1.6l2.6-0.1zM178.6 321.7l0.9 2.5l2.6 0.1l-2.1 1.6l0.7 2.5l-2.2-1.5l-2.2 1.5l0.7-2.5l-2.1-1.6l2.6-0.1zM150.6 325l0.9 2.5l2.6 0.1l-2.1 1.6l0.7 2.5l-2.2-1.5l-2.2 1.5l0.7-2.5l-2.1-1.6l2.6-0.1zM126.5 316.8l0.9 2.5l2.6 0.1l-2.1 1.6l0.7 2.5l-2.2-1.5l-2.2 1.5l0.7-2.5l-2.1-1.6l2.6-0.1zM139.8 311.1l0.9 2.5l2.6 0.1l-2.1 1.6l0.7 2.5l-2.2-1.5l-2.2 1.5l0.7-2.5l-2.1-1.6l2.6-0.1zM154.8 330.8l0.9 2.5l2.6 0.1l-2.1 1.6l0.7 2.5l-2.2-1.5l-2.2 1.5l0.7-2.5l-2.1-1.6l2.6-0.1zM125.8 297.7l0.9 2.5l2.6 0.1l-2.1 1.6l0.7 2.5l-2.2-1.5l-2.2 1.5l0.7-2.5l-2.1-1.6l2.6-0.1zM126.2 330.6l0.9 2.5l2.6 0.1l-2.1 1.6l0.7 2.5l-2.2-1.5l-2.2 1.5l0.7-2.5l-2.1-1.6l2.6-0.1zM132.4 296.8l0.9 2.5l2.6 0.1l-2.1 1.6l0.7 2.5l-2.2-1.5l-2.2 1.5l0.7-2.5l-2.1-1.6l2.6-0.1zM105 289.8l0.9 2.5l2.6 0.1l-2.1 1.6l0.7 2.5l-2.2-1.5l-2.2 1.5l0.7-2.5l-2.1-1.6l2.6-0.1zM119.5 312l0.9 2.5l2.6 0.1l-2.1 1.6l0.7 2.5l-2.2-1.5l-2.2 1.5l0.7-2.5l-2.1-1.6l2.6-0.1zM111.3 307.2l0.9 2.5l2.6 0.1l-2.1 1.6l0.7 2.5l-2.2-1.5l-2.2 1.5l0.7-2.5l-2.1-1.6l2.6-0.1zM149.8 325.5l0.9 2.5l2.6 0.1l-2.1 1.6l0.7 2.5l-2.2-1.5l-2.2 1.5l0.7-2.5l-2.1-1.6l2.6-0.1zM127.5 300.8l0.9 2.5l2.6 0.1l-2.1 1.6l0.7 2.5l-2.2-1.5l-2.2 1.5l0.7-2.5l-2.1-1.6l2.6-0.1zM161.9 312.7l0.9 2.5l2.6 0.1l-2.1 1.6l0.7 2.5l-2.2-1.5l-2.2 1.5l0.7-2.5l-2.1-1.6l2.6-0.1zM111.2 295.7l0.9 2.5l2.6 0.1l-2.1 1.6l0.7 2.5l-2.2-1.5l-2.2 1.5l0.7-2.5l-2.1-1.6l2.6-0.1zM136.9 317.6l0.9 2.5l2.6 0.1l-2.1 1.6l0.7 2.5l-2.2-1.5l-2.2 1.5l0.7-2.5l-2.1-1.6l2.6-0.1zM79.4 291.1l0.9 2.5l2.6 0.1l-2.1 1.6l0.7 2.5l-2.2-1.5l-2.2 1.5l0.7-2.5l-2.1-1.6l2.6-0.1zM133.8 320.5l0.9 2.5l2.6 0.1l-2.1 1.6l0.7 2.5l-2.2-1.5l-2.2 1.5l0.7-2.5l-2.1-1.6l2.6-0.1zM128.8 325.3l0.9 2.5l2.6 0.1l-2.1 1.6l0.7 2.5l-2.2-1.5l-2.2 1.5l0.7-2.5l-2.1-1.6l2.6-0.1zM100.8 299.6l0.9 2.5l2.6 0.1l-2.1 1.6l0.7 2.5l-2.2-1.5l-2.2 1.5l0.7-2.5l-2.1-1.6l2.6-0.1zM117.7 310.6l0.9 2.5l2.6 0.1l-2.1 1.6l0.7 2.5l-2.2-1.5l-2.2 1.5l0.7-2.5l-2.1-1.6l2.6-0.1zM152.5 343l0.9 2.5l2.6 0.1l-2.1 1.6l0.7 2.5l-2.2-1.5l-2.2 1.5l0.7-2.5l-2.1-1.6l2.6-0.1zM126.1 308l0.9 2.5l2.6 0.1l-2.1 1.6l0.7 2.5l-2.2-1.5l-2.2 1.5l0.7-2.5l-2.1-1.6l2.6-0.1zM108.5 307.4l0.9 2.5l2.6 0.1l-2.1 1.6l0.7 2.5l-2.2-1.5l-2.2 1.5l0.7-2.5l-2.1-1.6l2.6-0.1zM146.7 313.7l0.9 2.5l2.6 0.1l-2.1 1.6l0.7 2.5l-2.2-1.5l-2.2 1.5l0.7-2.5l-2.1-1.6l2.6-0.1zM110.4 297.4l0.9 2.5l2.6 0.1l-2.1 1.6l0.7 2.5l-2.2-1.5l-2.2 1.5l0.7-2.5l-2.1-1.6l2.6-0.1zM129.5 301.2l0.9 2.5l2.6 0.1l-2.1 1.6l0.7 2.5l-2.2-1.5l-2.2 1.5l0.7-2.5l-2.1-1.6l2.6-0.1zM96.4 296.2l0.9 2.5l2.6 0.1l-2.1 1.6l0.7 2.5l-2.2-1.5l-2.2 1.5l0.7-2.5l-2.1-1.6l2.6-0.1zM130 327.8l0.9 2.5l2.6 0.1l-2.1 1.6l0.7 2.5l-2.2-1.5l-2.2 1.5l0.7-2.5l-2.1-1.6l2.6-0.1zM124.8 311.8l0.9 2.5l2.6 0.1l-2.1 1.6l0.7 2.5l-2.2-1.5l-2.2 1.5l0.7-2.5l-2.1-1.6l2.6-0.1zM184.8 324.4l0.9 2.5l2.6 0.1l-2.1 1.6l0.7 2.5l-2.2-1.5l-2.2 1.5l0.7-2.5l-2.1-1.6l2.6-0.1zM177.9 335.2l0.9 2.5l2.6 0.1l-2.1 1.6l0.7 2.5l-2.2-1.5l-2.2 1.5l0.7-2.5l-2.1-1.6l2.6-0.1zM137.6 298.8l0.9 2.5l2.6 0.1l-2.1 1.6l0.7 2.5l-2.2-1.5l-2.2 1.5l0.7-2.5l-2.1-1.6l2.6-0.1zM119.5 323.7l0.9 2.5l2.6 0.1l-2.1 1.6l0.7 2.5l-2.2-1.5l-2.2 1.5l0.7-2.5l-2.1-1.6l2.6-0.1zM116.3 292.2l0.9 2.5l2.6 0.1l-2.1 1.6l0.7 2.5l-2.2-1.5l-2.2 1.5l0.7-2.5l-2.1-1.6l2.6-0.1zM147.3 314.1l0.9 2.5l2.6 0.1l-2.1 1.6l0.7 2.5l-2.2-1.5l-2.2 1.5l0.7-2.5l-2.1-1.6l2.6-0.1zM139.6 310.1l0.9 2.5l2.6 0.1l-2.1 1.6l0.7 2.5l-2.2-1.5l-2.2 1.5l0.7-2.5l-2.1-1.6l2.6-0.1zM118.7 314l0.9 2.5l2.6 0.1l-2.1 1.6l0.7 2.5l-2.2-1.5l-2.2 1.5l0.7-2.5l-2.1-1.6l2.6-0.1zM139.8 318.7l0.9 2.5l2.6 0.1l-2.1 1.6l0.7 2.5l-2.2-1.5l-2.2 1.5l0.7-2.5l-2.1-1.6l2.6-0.1zM119.1 323.3l0.9 2.5l2.6 0.1l-2.1 1.6l0.7 2.5l-2.2-1.5l-2.2 1.5l0.7-2.5l-2.1-1.6l2.6-0.1zM197.7 334.9l0.9 2.5l2.6 0.1l-2.1 1.6l0.7 2.5l-2.2-1.5l-2.2 1.5l0.7-2.5l-2.1-1.6l2.6-0.1zM175 326.2l0.9 2.5l2.6 0.1l-2.1 1.6l0.7 2.5l-2.2-1.5l-2.2 1.5l0.7-2.5l-2.1-1.6l2.6-0.1zM130.1 301.2l0.9 2.5l2.6 0.1l-2.1 1.6l0.7 2.5l-2.2-1.5l-2.2 1.5l0.7-2.5l-2.1-1.6l2.6-0.1zM118.7 293.8l0.9 2.5l2.6 0.1l-2.1 1.6l0.7 2.5l-2.2-1.5l-2.2 1.5l0.7-2.5l-2.1-1.6l2.6-0.1zM137.4 300.5l0.9 2.5l2.6 0.1l-2.1 1.6l0.7 2.5l-2.2-1.5l-2.2 1.5l0.7-2.5l-2.1-1.6l2.6-0.1zM122.3 308.8l0.9 2.5l2.6 0.1l-2.1 1.6l0.7 2.5l-2.2-1.5l-2.2 1.5l0.7-2.5l-2.1-1.6l2.6-0.1zM133.3 322.1l0.9 2.5l2.6 0.1l-2.1 1.6l0.7 2.5l-2.2-1.5l-2.2 1.5l0.7-2.5l-2.1-1.6l2.6-0.1zM109.5 308.4l0.9 2.5l2.6 0.1l-2.1 1.6l0.7 2.5l-2.2-1.5l-2.2 1.5l0.7-2.5l-2.1-1.6l2.6-0.1zM92.5 289.2l0.9 2.5l2.6 0.1l-2.1 1.6l0.7 2.5l-2.2-1.5l-2.2 1.5l0.7-2.5l-2.1-1.6l2.6-0.1zM103.5 283.1l0.9 2.5l2.6 0.1l-2.1 1.6l0.7 2.5l-2.2-1.5l-2.2 1.5l0.7-2.5l-2.1-1.6l2.6-0.1zM129.3 300.1l0.9 2.5l2.6 0.1l-2.1 1.6l0.7 2.5l-2.2-1.5l-2.2 1.5l0.7-2.5l-2.1-1.6l2.6-0.1zM162.3 337.2l0.9 2.5l2.6 0.1l-2.1 1.6l0.7 2.5l-2.2-1.5l-2.2 1.5l0.7-2.5l-2.1-1.6l2.6-0.1zM163.8 330.8l0.9 2.5l2.6 0.1l-2.1 1.6l0.7 2.5l-2.2-1.5l-2.2 1.5l0.7-2.5l-2.1-1.6l2.6-0.1zM136 311.2l0.9 2.5l2.6 0.1l-2.1 1.6l0.7 2.5l-2.2-1.5l-2.2 1.5l0.7-2.5l-2.1-1.6l2.6-0.1zM102.8 301.5l0.9 2.5l2.6 0.1l-2.1 1.6l0.7 2.5l-2.2-1.5l-2.2 1.5l0.7-2.5l-2.1-1.6l2.6-0.1zM129 316.2l0.9 2.5l2.6 0.1l-2.1 1.6l0.7 2.5l-2.2-1.5l-2.2 1.5l0.7-2.5l-2.1-1.6l2.6-0.1zM146.5 326.8l0.9 2.5l2.6 0.1l-2.1 1.6l0.7 2.5l-2.2-1.5l-2.2 1.5l0.7-2.5l-2.1-1.6l2.6-0.1zM174.6 345.6l0.9 2.5l2.6 0.1l-2.1 1.6l0.7 2.5l-2.2-1.5l-2.2 1.5l0.7-2.5l-2.1-1.6l2.6-0.1zM164.2 326.5l0.9 2.5l2.6 0.1l-2.1 1.6l0.7 2.5l-2.2-1.5l-2.2 1.5l0.7-2.5l-2.1-1.6l2.6-0.1zM124.3 296.1l0.9 2.5l2.6 0.1l-2.1 1.6l0.7 2.5l-2.2-1.5l-2.2 1.5l0.7-2.5l-2.1-1.6l2.6-0.1zM107 311.5l0.9 2.5l2.6 0.1l-2.1 1.6l0.7 2.5l-2.2-1.5l-2.2 1.5l0.7-2.5l-2.1-1.6l2.6-0.1zM142.9 326.2l0.9 2.5l2.6 0.1l-2.1 1.6l0.7 2.5l-2.2-1.5l-2.2 1.5l0.7-2.5l-2.1-1.6l2.6-0.1zM180.1 336.5l0.9 2.5l2.6 0.1l-2.1 1.6l0.7 2.5l-2.2-1.5l-2.2 1.5l0.7-2.5l-2.1-1.6l2.6-0.1zM169.6 336.9l0.9 2.5l2.6 0.1l-2.1 1.6l0.7 2.5l-2.2-1.5l-2.2 1.5l0.7-2.5l-2.1-1.6l2.6-0.1zM190.8 342.4l0.9 2.5l2.6 0.1l-2.1 1.6l0.7 2.5l-2.2-1.5l-2.2 1.5l0.7-2.5l-2.1-1.6l2.6-0.1zM150.9 321.6l0.9 2.5l2.6 0.1l-2.1 1.6l0.7 2.5l-2.2-1.5l-2.2 1.5l0.7-2.5l-2.1-1.6l2.6-0.1zM108.3 296.8l0.9 2.5l2.6 0.1l-2.1 1.6l0.7 2.5l-2.2-1.5l-2.2 1.5l0.7-2.5l-2.1-1.6l2.6-0.1zM146.1 327.2l0.9 2.5l2.6 0.1l-2.1 1.6l0.7 2.5l-2.2-1.5l-2.2 1.5l0.7-2.5l-2.1-1.6l2.6-0.1zM100.5 284.5l0.9 2.5l2.6 0.1l-2.1 1.6l0.7 2.5l-2.2-1.5l-2.2 1.5l0.7-2.5l-2.1-1.6l2.6-0.1zM143.3 322l0.9 2.5l2.6 0.1l-2.1 1.6l0.7 2.5l-2.2-1.5l-2.2 1.5l0.7-2.5l-2.1-1.6l2.6-0.1zM127.1 323.3l0.9 2.5l2.6 0.1l-2.1 1.6l0.7 2.5l-2.2-1.5l-2.2 1.5l0.7-2.5l-2.1-1.6l2.6-0.1zM127.5 292.5l0.9 2.5l2.6 0.1l-2.1 1.6l0.7 2.5l-2.2-1.5l-2.2 1.5l0.7-2.5l-2.1-1.6l2.6-0.1zM131.7 309.1l0.9 2.5l2.6 0.1l-2.1 1.6l0.7 2.5l-2.2-1.5l-2.2 1.5l0.7-2.5l-2.1-1.6l2.6-0.1zM142.1 320.5l0.9 2.5l2.6 0.1l-2.1 1.6l0.7 2.5l-2.2-1.5l-2.2 1.5l0.7-2.5l-2.1-1.6l2.6-0.1zM113.7 289.6l0.9 2.5l2.6 0.1l-2.1 1.6l0.7 2.5l-2.2-1.5l-2.2 1.5l0.7-2.5l-2.1-1.6l2.6-0.1zM102.1 307.5l0.9 2.5l2.6 0.1l-2.1 1.6l0.7 2.5l-2.2-1.5l-2.2 1.5l0.7-2.5l-2.1-1.6l2.6-0.1zM192 330.4l0.9 2.5l2.6 0.1l-2.1 1.6l0.7 2.5l-2.2-1.5l-2.2 1.5l0.7-2.5l-2.1-1.6l2.6-0.1zM138.9 299.8l0.9 2.5l2.6 0.1l-2.1 1.6l0.7 2.5l-2.2-1.5l-2.2 1.5l0.7-2.5l-2.1-1.6l2.6-0.1zM98 305.6l0.9 2.5l2.6 0.1l-2.1 1.6l0.7 2.5l-2.2-1.5l-2.2 1.5l0.7-2.5l-2.1-1.6l2.6-0.1zM100.5 277.6l0.9 2.5l2.6 0.1l-2.1 1.6l0.7 2.5l-2.2-1.5l-2.2 1.5l0.7-2.5l-2.1-1.6l2.6-0.1zM177.8 326.8l0.9 2.5l2.6 0.1l-2.1 1.6l0.7 2.5l-2.2-1.5l-2.2 1.5l0.7-2.5l-2.1-1.6l2.6-0.1zM119.2 303.4l0.9 2.5l2.6 0.1l-2.1 1.6l0.7 2.5l-2.2-1.5l-2.2 1.5l0.7-2.5l-2.1-1.6l2.6-0.1zM141.2 315.1l0.9 2.5l2.6 0.1l-2.1 1.6l0.7 2.5l-2.2-1.5l-2.2 1.5l0.7-2.5l-2.1-1.6l2.6-0.1zM140.5 298.8l0.9 2.5l2.6 0.1l-2.1 1.6l0.7 2.5l-2.2-1.5l-2.2 1.5l0.7-2.5l-2.1-1.6l2.6-0.1zM171.5 317.8l0.9 2.5l2.6 0.1l-2.1 1.6l0.7 2.5l-2.2-1.5l-2.2 1.5l0.7-2.5l-2.1-1.6l2.6-0.1zM149.7 327.9l0.9 2.5l2.6 0.1l-2.1 1.6l0.7 2.5l-2.2-1.5l-2.2 1.5l0.7-2.5l-2.1-1.6l2.6-0.1zM95.6 291.3l0.9 2.5l2.6 0.1l-2.1 1.6l0.7 2.5l-2.2-1.5l-2.2 1.5l0.7-2.5l-2.1-1.6l2.6-0.1zM95.4 293.3l0.9 2.5l2.6 0.1l-2.1 1.6l0.7 2.5l-2.2-1.5l-2.2 1.5l0.7-2.5l-2.1-1.6l2.6-0.1zM134.6 304.6l0.9 2.5l2.6 0.1l-2.1 1.6l0.7 2.5l-2.2-1.5l-2.2 1.5l0.7-2.5l-2.1-1.6l2.6-0.1zM98 301.8l0.9 2.5l2.6 0.1l-2.1 1.6l0.7 2.5l-2.2-1.5l-2.2 1.5l0.7-2.5l-2.1-1.6l2.6-0.1zM93.9 277.7l0.9 2.5l2.6 0.1l-2.1 1.6l0.7 2.5l-2.2-1.5l-2.2 1.5l0.7-2.5l-2.1-1.6l2.6-0.1zM108.4 296.2l0.9 2.5l2.6 0.1l-2.1 1.6l0.7 2.5l-2.2-1.5l-2.2 1.5l0.7-2.5l-2.1-1.6l2.6-0.1zM140.4 312.3l0.9 2.5l2.6 0.1l-2.1 1.6l0.7 2.5l-2.2-1.5l-2.2 1.5l0.7-2.5l-2.1-1.6l2.6-0.1zM165.7 313.4l0.9 2.5l2.6 0.1l-2.1 1.6l0.7 2.5l-2.2-1.5l-2.2 1.5l0.7-2.5l-2.1-1.6l2.6-0.1zM155.6 315.4l0.9 2.5l2.6 0.1l-2.1 1.6l0.7 2.5l-2.2-1.5l-2.2 1.5l0.7-2.5l-2.1-1.6l2.6-0.1zM122.6 311.4l0.9 2.5l2.6 0.1l-2.1 1.6l0.7 2.5l-2.2-1.5l-2.2 1.5l0.7-2.5l-2.1-1.6l2.6-0.1zM149.1 297.9l0.9 2.5l2.6 0.1l-2.1 1.6l0.7 2.5l-2.2-1.5l-2.2 1.5l0.7-2.5l-2.1-1.6l2.6-0.1zM108.3 289.3l0.9 2.5l2.6 0.1l-2.1 1.6l0.7 2.5l-2.2-1.5l-2.2 1.5l0.7-2.5l-2.1-1.6l2.6-0.1zM174.8 349.1l0.9 2.5l2.6 0.1l-2.1 1.6l0.7 2.5l-2.2-1.5l-2.2 1.5l0.7-2.5l-2.1-1.6l2.6-0.1zM172.6 324.9l0.9 2.5l2.6 0.1l-2.1 1.6l0.7 2.5l-2.2-1.5l-2.2 1.5l0.7-2.5l-2.1-1.6l2.6-0.1zM120.5 289.1l0.9 2.5l2.6 0.1l-2.1 1.6l0.7 2.5l-2.2-1.5l-2.2 1.5l0.7-2.5l-2.1-1.6l2.6-0.1zM131.8 306.1l0.9 2.5l2.6 0.1l-2.1 1.6l0.7 2.5l-2.2-1.5l-2.2 1.5l0.7-2.5l-2.1-1.6l2.6-0.1zM101 290.7l0.9 2.5l2.6 0.1l-2.1 1.6l0.7 2.5l-2.2-1.5l-2.2 1.5l0.7-2.5l-2.1-1.6l2.6-0.1zM95.6 286.8l0.9 2.5l2.6 0.1l-2.1 1.6l0.7 2.5l-2.2-1.5l-2.2 1.5l0.7-2.5l-2.1-1.6l2.6-0.1zM86.9 289.5l0.9 2.5l2.6 0.1l-2.1 1.6l0.7 2.5l-2.2-1.5l-2.2 1.5l0.7-2.5l-2.1-1.6l2.6-0.1zM126.3 308l0.9 2.5l2.6 0.1l-2.1 1.6l0.7 2.5l-2.2-1.5l-2.2 1.5l0.7-2.5l-2.1-1.6l2.6-0.1zM126.3 297.4l0.9 2.5l2.6 0.1l-2.1 1.6l0.7 2.5l-2.2-1.5l-2.2 1.5l0.7-2.5l-2.1-1.6l2.6-0.1zM109.3 308.7l0.9 2.5l2.6 0.1l-2.1 1.6l0.7 2.5l-2.2-1.5l-2.2 1.5l0.7-2.5l-2.1-1.6l2.6-0.1zM97.7 285.6l0.9 2.5l2.6 0.1l-2.1 1.6l0.7 2.5l-2.2-1.5l-2.2 1.5l0.7-2.5l-2.1-1.6l2.6-0.1zM126.5 314l0.9 2.5l2.6 0.1l-2.1 1.6l0.7 2.5l-2.2-1.5l-2.2 1.5l0.7-2.5l-2.1-1.6l2.6-0.1zM178.2 322.8l0.9 2.5l2.6 0.1l-2.1 1.6l0.7 2.5l-2.2-1.5l-2.2 1.5l0.7-2.5l-2.1-1.6l2.6-0.1zM159.2 312.9l0.9 2.5l2.6 0.1l-2.1 1.6l0.7 2.5l-2.2-1.5l-2.2 1.5l0.7-2.5l-2.1-1.6l2.6-0.1zM90.5 288.4l0.9 2.5l2.6 0.1l-2.1 1.6l0.7 2.5l-2.2-1.5l-2.2 1.5l0.7-2.5l-2.1-1.6l2.6-0.1zM135.7 305.5l0.9 2.5l2.6 0.1l-2.1 1.6l0.7 2.5l-2.2-1.5l-2.2 1.5l0.7-2.5l-2.1-1.6l2.6-0.1zM145.8 323.6l0.9 2.5l2.6 0.1l-2.1 1.6l0.7 2.5l-2.2-1.5l-2.2 1.5l0.7-2.5l-2.1-1.6l2.6-0.1zM173 322.1l0.9 2.5l2.6 0.1l-2.1 1.6l0.7 2.5l-2.2-1.5l-2.2 1.5l0.7-2.5l-2.1-1.6l2.6-0.1zM109.8 306.3l0.9 2.5l2.6 0.1l-2.1 1.6l0.7 2.5l-2.2-1.5l-2.2 1.5l0.7-2.5l-2.1-1.6l2.6-0.1zM164.8 337.8l0.9 2.5l2.6 0.1l-2.1 1.6l0.7 2.5l-2.2-1.5l-2.2 1.5l0.7-2.5l-2.1-1.6l2.6-0.1zM96.2 298.5l0.9 2.5l2.6 0.1l-2.1 1.6l0.7 2.5l-2.2-1.5l-2.2 1.5l0.7-2.5l-2.1-1.6l2.6-0.1zM113.7 294.9l0.9 2.5l2.6 0.1l-2.1 1.6l0.7 2.5l-2.2-1.5l-2.2 1.5l0.7-2.5l-2.1-1.6l2.6-0.1zM96.5 296.4l0.9 2.5l2.6 0.1l-2.1 1.6l0.7 2.5l-2.2-1.5l-2.2 1.5l0.7-2.5l-2.1-1.6l2.6-0.1zM121.8 293.9l0.9 2.5l2.6 0.1l-2.1 1.6l0.7 2.5l-2.2-1.5l-2.2 1.5l0.7-2.5l-2.1-1.6l2.6-0.1zM101.5 287.7l0.9 2.5l2.6 0.1l-2.1 1.6l0.7 2.5l-2.2-1.5l-2.2 1.5l0.7-2.5l-2.1-1.6l2.6-0.1zM206.5 350.3l0.9 2.5l2.6 0.1l-2.1 1.6l0.7 2.5l-2.2-1.5l-2.2 1.5l0.7-2.5l-2.1-1.6l2.6-0.1zM150.7 327.9l0.9 2.5l2.6 0.1l-2.1 1.6l0.7 2.5l-2.2-1.5l-2.2 1.5l0.7-2.5l-2.1-1.6l2.6-0.1zM146.2 318.8l0.9 2.5l2.6 0.1l-2.1 1.6l0.7 2.5l-2.2-1.5l-2.2 1.5l0.7-2.5l-2.1-1.6l2.6-0.1zM97.7 300.9l0.9 2.5l2.6 0.1l-2.1 1.6l0.7 2.5l-2.2-1.5l-2.2 1.5l0.7-2.5l-2.1-1.6l2.6-0.1zM173.1 345.8l0.9 2.5l2.6 0.1l-2.1 1.6l0.7 2.5l-2.2-1.5l-2.2 1.5l0.7-2.5l-2.1-1.6l2.6-0.1zM135.9 319.4l0.9 2.5l2.6 0.1l-2.1 1.6l0.7 2.5l-2.2-1.5l-2.2 1.5l0.7-2.5l-2.1-1.6l2.6-0.1zM160.8 322.1l0.9 2.5l2.6 0.1l-2.1 1.6l0.7 2.5l-2.2-1.5l-2.2 1.5l0.7-2.5l-2.1-1.6l2.6-0.1zM103.3 295.1l0.9 2.5l2.6 0.1l-2.1 1.6l0.7 2.5l-2.2-1.5l-2.2 1.5l0.7-2.5l-2.1-1.6l2.6-0.1zM105.2 291.1l0.9 2.5l2.6 0.1l-2.1 1.6l0.7 2.5l-2.2-1.5l-2.2 1.5l0.7-2.5l-2.1-1.6l2.6-0.1zM142.2 299.4l0.9 2.5l2.6 0.1l-2.1 1.6l0.7 2.5l-2.2-1.5l-2.2 1.5l0.7-2.5l-2.1-1.6l2.6-0.1zM147.9 328.8l0.9 2.5l2.6 0.1l-2.1 1.6l0.7 2.5l-2.2-1.5l-2.2 1.5l0.7-2.5l-2.1-1.6l2.6-0.1zM164 331.7l0.9 2.5l2.6 0.1l-2.1 1.6l0.7 2.5l-2.2-1.5l-2.2 1.5l0.7-2.5l-2.1-1.6l2.6-0.1zM116.6 298.3l0.9 2.5l2.6 0.1l-2.1 1.6l0.7 2.5l-2.2-1.5l-2.2 1.5l0.7-2.5l-2.1-1.6l2.6-0.1zM120.9 300.1l0.9 2.5l2.6 0.1l-2.1 1.6l0.7 2.5l-2.2-1.5l-2.2 1.5l0.7-2.5l-2.1-1.6l2.6-0.1zM89.6 284.9l0.9 2.5l2.6 0.1l-2.1 1.6l0.7 2.5l-2.2-1.5l-2.2 1.5l0.7-2.5l-2.1-1.6l2.6-0.1zM151.8 321.9l0.9 2.5l2.6 0.1l-2.1 1.6l0.7 2.5l-2.2-1.5l-2.2 1.5l0.7-2.5l-2.1-1.6l2.6-0.1zM166.4 344.3l0.9 2.5l2.6 0.1l-2.1 1.6l0.7 2.5l-2.2-1.5l-2.2 1.5l0.7-2.5l-2.1-1.6l2.6-0.1zM148.9 310.9l0.9 2.5l2.6 0.1l-2.1 1.6l0.7 2.5l-2.2-1.5l-2.2 1.5l0.7-2.5l-2.1-1.6l2.6-0.1zM148.1 329.5l0.9 2.5l2.6 0.1l-2.1 1.6l0.7 2.5l-2.2-1.5l-2.2 1.5l0.7-2.5l-2.1-1.6l2.6-0.1zM115.3 323.5l0.9 2.5l2.6 0.1l-2.1 1.6l0.7 2.5l-2.2-1.5l-2.2 1.5l0.7-2.5l-2.1-1.6l2.6-0.1zM157.9 319.9l0.9 2.5l2.6 0.1l-2.1 1.6l0.7 2.5l-2.2-1.5l-2.2 1.5l0.7-2.5l-2.1-1.6l2.6-0.1zM113.4 284.4l0.9 2.5l2.6 0.1l-2.1 1.6l0.7 2.5l-2.2-1.5l-2.2 1.5l0.7-2.5l-2.1-1.6l2.6-0.1zM153.1 317.1l0.9 2.5l2.6 0.1l-2.1 1.6l0.7 2.5l-2.2-1.5l-2.2 1.5l0.7-2.5l-2.1-1.6l2.6-0.1zM80.8 284l0.9 2.5l2.6 0.1l-2.1 1.6l0.7 2.5l-2.2-1.5l-2.2 1.5l0.7-2.5l-2.1-1.6l2.6-0.1zM107.8 298l0.9 2.5l2.6 0.1l-2.1 1.6l0.7 2.5l-2.2-1.5l-2.2 1.5l0.7-2.5l-2.1-1.6l2.6-0.1zM119.3 308l0.9 2.5l2.6 0.1l-2.1 1.6l0.7 2.5l-2.2-1.5l-2.2 1.5l0.7-2.5l-2.1-1.6l2.6-0.1zM119.1 304.1l0.9 2.5l2.6 0.1l-2.1 1.6l0.7 2.5l-2.2-1.5l-2.2 1.5l0.7-2.5l-2.1-1.6l2.6-0.1zM120.1 311.4l0.9 2.5l2.6 0.1l-2.1 1.6l0.7 2.5l-2.2-1.5l-2.2 1.5l0.7-2.5l-2.1-1.6l2.6-0.1zM163.2 323.7l0.9 2.5l2.6 0.1l-2.1 1.6l0.7 2.5l-2.2-1.5l-2.2 1.5l0.7-2.5l-2.1-1.6l2.6-0.1zM85.8 300.6l0.9 2.5l2.6 0.1l-2.1 1.6l0.7 2.5l-2.2-1.5l-2.2 1.5l0.7-2.5l-2.1-1.6l2.6-0.1zM142.3 326.2l0.9 2.5l2.6 0.1l-2.1 1.6l0.7 2.5l-2.2-1.5l-2.2 1.5l0.7-2.5l-2.1-1.6l2.6-0.1zM127.6 318l0.9 2.5l2.6 0.1l-2.1 1.6l0.7 2.5l-2.2-1.5l-2.2 1.5l0.7-2.5l-2.1-1.6l2.6-0.1zM103.3 304.4l0.9 2.5l2.6 0.1l-2.1 1.6l0.7 2.5l-2.2-1.5l-2.2 1.5l0.7-2.5l-2.1-1.6l2.6-0.1zM156.9 319.3l0.9 2.5l2.6 0.1l-2.1 1.6l0.7 2.5l-2.2-1.5l-2.2 1.5l0.7-2.5l-2.1-1.6l2.6-0.1zM94.3 308.7l0.9 2.5l2.6 0.1l-2.1 1.6l0.7 2.5l-2.2-1.5l-2.2 1.5l0.7-2.5l-2.1-1.6l2.6-0.1zM154.8 332.9l0.9 2.5l2.6 0.1l-2.1 1.6l0.7 2.5l-2.2-1.5l-2.2 1.5l0.7-2.5l-2.1-1.6l2.6-0.1zM138.9 310.8l0.9 2.5l2.6 0.1l-2.1 1.6l0.7 2.5l-2.2-1.5l-2.2 1.5l0.7-2.5l-2.1-1.6l2.6-0.1zM87.1 290.2l0.9 2.5l2.6 0.1l-2.1 1.6l0.7 2.5l-2.2-1.5l-2.2 1.5l0.7-2.5l-2.1-1.6l2.6-0.1zM132.1 325.2l0.9 2.5l2.6 0.1l-2.1 1.6l0.7 2.5l-2.2-1.5l-2.2 1.5l0.7-2.5l-2.1-1.6l2.6-0.1zM176.3 320.2l0.9 2.5l2.6 0.1l-2.1 1.6l0.7 2.5l-2.2-1.5l-2.2 1.5l0.7-2.5l-2.1-1.6l2.6-0.1zM149.1 314.6l0.9 2.5l2.6 0.1l-2.1 1.6l0.7 2.5l-2.2-1.5l-2.2 1.5l0.7-2.5l-2.1-1.6l2.6-0.1zM98.7 288l0.9 2.5l2.6 0.1l-2.1 1.6l0.7 2.5l-2.2-1.5l-2.2 1.5l0.7-2.5l-2.1-1.6l2.6-0.1zM91.5 284.3l0.9 2.5l2.6 0.1l-2.1 1.6l0.7 2.5l-2.2-1.5l-2.2 1.5l0.7-2.5l-2.1-1.6l2.6-0.1zM145.4 336.1l0.9 2.5l2.6 0.1l-2.1 1.6l0.7 2.5l-2.2-1.5l-2.2 1.5l0.7-2.5l-2.1-1.6l2.6-0.1zM189.9 332.6l0.9 2.5l2.6 0.1l-2.1 1.6l0.7 2.5l-2.2-1.5l-2.2 1.5l0.7-2.5l-2.1-1.6l2.6-0.1zM123 318.1l0.9 2.5l2.6 0.1l-2.1 1.6l0.7 2.5l-2.2-1.5l-2.2 1.5l0.7-2.5l-2.1-1.6l2.6-0.1zM131.4 299.6l0.9 2.5l2.6 0.1l-2.1 1.6l0.7 2.5l-2.2-1.5l-2.2 1.5l0.7-2.5l-2.1-1.6l2.6-0.1zM122.1 324.7l0.9 2.5l2.6 0.1l-2.1 1.6l0.7 2.5l-2.2-1.5l-2.2 1.5l0.7-2.5l-2.1-1.6l2.6-0.1zM189.2 337.5l0.9 2.5l2.6 0.1l-2.1 1.6l0.7 2.5l-2.2-1.5l-2.2 1.5l0.7-2.5l-2.1-1.6l2.6-0.1zM97.9 294.7l0.9 2.5l2.6 0.1l-2.1 1.6l0.7 2.5l-2.2-1.5l-2.2 1.5l0.7-2.5l-2.1-1.6l2.6-0.1zM92.7 288.6l0.9 2.5l2.6 0.1l-2.1 1.6l0.7 2.5l-2.2-1.5l-2.2 1.5l0.7-2.5l-2.1-1.6l2.6-0.1zM126.9 300.8l0.9 2.5l2.6 0.1l-2.1 1.6l0.7 2.5l-2.2-1.5l-2.2 1.5l0.7-2.5l-2.1-1.6l2.6-0.1zM145 315.9l0.9 2.5l2.6 0.1l-2.1 1.6l0.7 2.5l-2.2-1.5l-2.2 1.5l0.7-2.5l-2.1-1.6l2.6-0.1zM119.6 320.2l0.9 2.5l2.6 0.1l-2.1 1.6l0.7 2.5l-2.2-1.5l-2.2 1.5l0.7-2.5l-2.1-1.6l2.6-0.1zM133.2 322.6l0.9 2.5l2.6 0.1l-2.1 1.6l0.7 2.5l-2.2-1.5l-2.2 1.5l0.7-2.5l-2.1-1.6l2.6-0.1zM104.4 277.9l0.9 2.5l2.6 0.1l-2.1 1.6l0.7 2.5l-2.2-1.5l-2.2 1.5l0.7-2.5l-2.1-1.6l2.6-0.1zM198.6 340.4l0.9 2.5l2.6 0.1l-2.1 1.6l0.7 2.5l-2.2-1.5l-2.2 1.5l0.7-2.5l-2.1-1.6l2.6-0.1zM98.4 298.3l0.9 2.5l2.6 0.1l-2.1 1.6l0.7 2.5l-2.2-1.5l-2.2 1.5l0.7-2.5l-2.1-1.6l2.6-0.1zM120.1 306.6l0.9 2.5l2.6 0.1l-2.1 1.6l0.7 2.5l-2.2-1.5l-2.2 1.5l0.7-2.5l-2.1-1.6l2.6-0.1zM172.4 344.3l0.9 2.5l2.6 0.1l-2.1 1.6l0.7 2.5l-2.2-1.5l-2.2 1.5l0.7-2.5l-2.1-1.6l2.6-0.1zM151.8 321.3l0.9 2.5l2.6 0.1l-2.1 1.6l0.7 2.5l-2.2-1.5l-2.2 1.5l0.7-2.5l-2.1-1.6l2.6-0.1zM116.5 319.1l0.9 2.5l2.6 0.1l-2.1 1.6l0.7 2.5l-2.2-1.5l-2.2 1.5l0.7-2.5l-2.1-1.6l2.6-0.1zM150.6 303.4l0.9 2.5l2.6 0.1l-2.1 1.6l0.7 2.5l-2.2-1.5l-2.2 1.5l0.7-2.5l-2.1-1.6l2.6-0.1zM181.4 335.4l0.9 2.5l2.6 0.1l-2.1 1.6l0.7 2.5l-2.2-1.5l-2.2 1.5l0.7-2.5l-2.1-1.6l2.6-0.1zM153.8 311.4l0.9 2.5l2.6 0.1l-2.1 1.6l0.7 2.5l-2.2-1.5l-2.2 1.5l0.7-2.5l-2.1-1.6l2.6-0.1zM130.9 301.4l0.9 2.5l2.6 0.1l-2.1 1.6l0.7 2.5l-2.2-1.5l-2.2 1.5l0.7-2.5l-2.1-1.6l2.6-0.1zM147.3 315.1l0.9 2.5l2.6 0.1l-2.1 1.6l0.7 2.5l-2.2-1.5l-2.2 1.5l0.7-2.5l-2.1-1.6l2.6-0.1zM138 310.5l0.9 2.5l2.6 0.1l-2.1 1.6l0.7 2.5l-2.2-1.5l-2.2 1.5l0.7-2.5l-2.1-1.6l2.6-0.1zM139.6 327.8l0.9 2.5l2.6 0.1l-2.1 1.6l0.7 2.5l-2.2-1.5l-2.2 1.5l0.7-2.5l-2.1-1.6l2.6-0.1zM114.9 315.8l0.9 2.5l2.6 0.1l-2.1 1.6l0.7 2.5l-2.2-1.5l-2.2 1.5l0.7-2.5l-2.1-1.6l2.6-0.1zM135.8 322.8l0.9 2.5l2.6 0.1l-2.1 1.6l0.7 2.5l-2.2-1.5l-2.2 1.5l0.7-2.5l-2.1-1.6l2.6-0.1zM150.3 317.2l0.9 2.5l2.6 0.1l-2.1 1.6l0.7 2.5l-2.2-1.5l-2.2 1.5l0.7-2.5l-2.1-1.6l2.6-0.1zM107.8 289.3l0.9 2.5l2.6 0.1l-2.1 1.6l0.7 2.5l-2.2-1.5l-2.2 1.5l0.7-2.5l-2.1-1.6l2.6-0.1zM166.4 334.1l0.9 2.5l2.6 0.1l-2.1 1.6l0.7 2.5l-2.2-1.5l-2.2 1.5l0.7-2.5l-2.1-1.6l2.6-0.1zM148.6 323.2l0.9 2.5l2.6 0.1l-2.1 1.6l0.7 2.5l-2.2-1.5l-2.2 1.5l0.7-2.5l-2.1-1.6l2.6-0.1zM112.7 297.6l0.9 2.5l2.6 0.1l-2.1 1.6l0.7 2.5l-2.2-1.5l-2.2 1.5l0.7-2.5l-2.1-1.6l2.6-0.1zM148.8 314.6l0.9 2.5l2.6 0.1l-2.1 1.6l0.7 2.5l-2.2-1.5l-2.2 1.5l0.7-2.5l-2.1-1.6l2.6-0.1zM141.4 327.5l0.9 2.5l2.6 0.1l-2.1 1.6l0.7 2.5l-2.2-1.5l-2.2 1.5l0.7-2.5l-2.1-1.6l2.6-0.1zM158.2 326.4l0.9 2.5l2.6 0.1l-2.1 1.6l0.7 2.5l-2.2-1.5l-2.2 1.5l0.7-2.5l-2.1-1.6l2.6-0.1zM105.7 315.2l0.9 2.5l2.6 0.1l-2.1 1.6l0.7 2.5l-2.2-1.5l-2.2 1.5l0.7-2.5l-2.1-1.6l2.6-0.1zM173.4 322l0.9 2.5l2.6 0.1l-2.1 1.6l0.7 2.5l-2.2-1.5l-2.2 1.5l0.7-2.5l-2.1-1.6l2.6-0.1zM136.5 326.9l0.9 2.5l2.6 0.1l-2.1 1.6l0.7 2.5l-2.2-1.5l-2.2 1.5l0.7-2.5l-2.1-1.6l2.6-0.1zM156.5 331.7l0.9 2.5l2.6 0.1l-2.1 1.6l0.7 2.5l-2.2-1.5l-2.2 1.5l0.7-2.5l-2.1-1.6l2.6-0.1zM97.8 291l0.9 2.5l2.6 0.1l-2.1 1.6l0.7 2.5l-2.2-1.5l-2.2 1.5l0.7-2.5l-2.1-1.6l2.6-0.1zM136.3 322.2l0.9 2.5l2.6 0.1l-2.1 1.6l0.7 2.5l-2.2-1.5l-2.2 1.5l0.7-2.5l-2.1-1.6l2.6-0.1zM157.4 319.1l0.9 2.5l2.6 0.1l-2.1 1.6l0.7 2.5l-2.2-1.5l-2.2 1.5l0.7-2.5l-2.1-1.6l2.6-0.1zM87.8 299.4l0.9 2.5l2.6 0.1l-2.1 1.6l0.7 2.5l-2.2-1.5l-2.2 1.5l0.7-2.5l-2.1-1.6l2.6-0.1zM123.3 301l0.9 2.5l2.6 0.1l-2.1 1.6l0.7 2.5l-2.2-1.5l-2.2 1.5l0.7-2.5l-2.1-1.6l2.6-0.1zM104.2 294.2l0.9 2.5l2.6 0.1l-2.1 1.6l0.7 2.5l-2.2-1.5l-2.2 1.5l0.7-2.5l-2.1-1.6l2.6-0.1zM132.7 299.1l0.9 2.5l2.6 0.1l-2.1 1.6l0.7 2.5l-2.2-1.5l-2.2 1.5l0.7-2.5l-2.1-1.6l2.6-0.1zM113.3 296.3l0.9 2.5l2.6 0.1l-2.1 1.6l0.7 2.5l-2.2-1.5l-2.2 1.5l0.7-2.5l-2.1-1.6l2.6-0.1zM97.5 303.2l0.9 2.5l2.6 0.1l-2.1 1.6l0.7 2.5l-2.2-1.5l-2.2 1.5l0.7-2.5l-2.1-1.6l2.6-0.1zM152.6 303.7l0.9 2.5l2.6 0.1l-2.1 1.6l0.7 2.5l-2.2-1.5l-2.2 1.5l0.7-2.5l-2.1-1.6l2.6-0.1zM96.1 298l0.9 2.5l2.6 0.1l-2.1 1.6l0.7 2.5l-2.2-1.5l-2.2 1.5l0.7-2.5l-2.1-1.6l2.6-0.1zM127.9 309.8l0.9 2.5l2.6 0.1l-2.1 1.6l0.7 2.5l-2.2-1.5l-2.2 1.5l0.7-2.5l-2.1-1.6l2.6-0.1zM136.9 300.7l0.9 2.5l2.6 0.1l-2.1 1.6l0.7 2.5l-2.2-1.5l-2.2 1.5l0.7-2.5l-2.1-1.6l2.6-0.1zM126.5 316l0.9 2.5l2.6 0.1l-2.1 1.6l0.7 2.5l-2.2-1.5l-2.2 1.5l0.7-2.5l-2.1-1.6l2.6-0.1zM95.9 295.7l0.9 2.5l2.6 0.1l-2.1 1.6l0.7 2.5l-2.2-1.5l-2.2 1.5l0.7-2.5l-2.1-1.6l2.6-0.1zM100.8 297.2l0.9 2.5l2.6 0.1l-2.1 1.6l0.7 2.5l-2.2-1.5l-2.2 1.5l0.7-2.5l-2.1-1.6l2.6-0.1zM113.9 300.7l0.9 2.5l2.6 0.1l-2.1 1.6l0.7 2.5l-2.2-1.5l-2.2 1.5l0.7-2.5l-2.1-1.6l2.6-0.1zM127.6 307.9l0.9 2.5l2.6 0.1l-2.1 1.6l0.7 2.5l-2.2-1.5l-2.2 1.5l0.7-2.5l-2.1-1.6l2.6-0.1zM195.3 347.4l0.9 2.5l2.6 0.1l-2.1 1.6l0.7 2.5l-2.2-1.5l-2.2 1.5l0.7-2.5l-2.1-1.6l2.6-0.1zM121.3 303.4l0.9 2.5l2.6 0.1l-2.1 1.6l0.7 2.5l-2.2-1.5l-2.2 1.5l0.7-2.5l-2.1-1.6l2.6-0.1zM93.8 290.7l0.9 2.5l2.6 0.1l-2.1 1.6l0.7 2.5l-2.2-1.5l-2.2 1.5l0.7-2.5l-2.1-1.6l2.6-0.1zM128.1 314.2l0.9 2.5l2.6 0.1l-2.1 1.6l0.7 2.5l-2.2-1.5l-2.2 1.5l0.7-2.5l-2.1-1.6l2.6-0.1zM87.1 300.6l0.9 2.5l2.6 0.1l-2.1 1.6l0.7 2.5l-2.2-1.5l-2.2 1.5l0.7-2.5l-2.1-1.6l2.6-0.1zM167.2 339.4l0.9 2.5l2.6 0.1l-2.1 1.6l0.7 2.5l-2.2-1.5l-2.2 1.5l0.7-2.5l-2.1-1.6l2.6-0.1zM102.8 284.6l0.9 2.5l2.6 0.1l-2.1 1.6l0.7 2.5l-2.2-1.5l-2.2 1.5l0.7-2.5l-2.1-1.6l2.6-0.1zM166.2 329.5l0.9 2.5l2.6 0.1l-2.1 1.6l0.7 2.5l-2.2-1.5l-2.2 1.5l0.7-2.5l-2.1-1.6l2.6-0.1zM125.2 308.9l0.9 2.5l2.6 0.1l-2.1 1.6l0.7 2.5l-2.2-1.5l-2.2 1.5l0.7-2.5l-2.1-1.6l2.6-0.1zM148.7 312l0.9 2.5l2.6 0.1l-2.1 1.6l0.7 2.5l-2.2-1.5l-2.2 1.5l0.7-2.5l-2.1-1.6l2.6-0.1zM140.4 311.4l0.9 2.5l2.6 0.1l-2.1 1.6l0.7 2.5l-2.2-1.5l-2.2 1.5l0.7-2.5l-2.1-1.6l2.6-0.1zM172.4 332.7l0.9 2.5l2.6 0.1l-2.1 1.6l0.7 2.5l-2.2-1.5l-2.2 1.5l0.7-2.5l-2.1-1.6l2.6-0.1zM106 296.8l0.9 2.5l2.6 0.1l-2.1 1.6l0.7 2.5l-2.2-1.5l-2.2 1.5l0.7-2.5l-2.1-1.6l2.6-0.1zM87.6 287.8l0.9 2.5l2.6 0.1l-2.1 1.6l0.7 2.5l-2.2-1.5l-2.2 1.5l0.7-2.5l-2.1-1.6l2.6-0.1zM135.4 328.4l0.9 2.5l2.6 0.1l-2.1 1.6l0.7 2.5l-2.2-1.5l-2.2 1.5l0.7-2.5l-2.1-1.6l2.6-0.1zM169.2 320.9l0.9 2.5l2.6 0.1l-2.1 1.6l0.7 2.5l-2.2-1.5l-2.2 1.5l0.7-2.5l-2.1-1.6l2.6-0.1zM176.2 336.8l0.9 2.5l2.6 0.1l-2.1 1.6l0.7 2.5l-2.2-1.5l-2.2 1.5l0.7-2.5l-2.1-1.6l2.6-0.1zM147.1 326.6l0.9 2.5l2.6 0.1l-2.1 1.6l0.7 2.5l-2.2-1.5l-2.2 1.5l0.7-2.5l-2.1-1.6l2.6-0.1zM165.6 318l0.9 2.5l2.6 0.1l-2.1 1.6l0.7 2.5l-2.2-1.5l-2.2 1.5l0.7-2.5l-2.1-1.6l2.6-0.1zM117.3 295.4l0.9 2.5l2.6 0.1l-2.1 1.6l0.7 2.5l-2.2-1.5l-2.2 1.5l0.7-2.5l-2.1-1.6l2.6-0.1zM202.8 345.7l0.9 2.5l2.6 0.1l-2.1 1.6l0.7 2.5l-2.2-1.5l-2.2 1.5l0.7-2.5l-2.1-1.6l2.6-0.1zM106.4 289.9l0.9 2.5l2.6 0.1l-2.1 1.6l0.7 2.5l-2.2-1.5l-2.2 1.5l0.7-2.5l-2.1-1.6l2.6-0.1zM118.3 306.8l0.9 2.5l2.6 0.1l-2.1 1.6l0.7 2.5l-2.2-1.5l-2.2 1.5l0.7-2.5l-2.1-1.6l2.6-0.1zM85.5 305.6l0.9 2.5l2.6 0.1l-2.1 1.6l0.7 2.5l-2.2-1.5l-2.2 1.5l0.7-2.5l-2.1-1.6l2.6-0.1zM101.8 293.2l0.9 2.5l2.6 0.1l-2.1 1.6l0.7 2.5l-2.2-1.5l-2.2 1.5l0.7-2.5l-2.1-1.6l2.6-0.1zM69.3 278.6l0.9 2.5l2.6 0.1l-2.1 1.6l0.7 2.5l-2.2-1.5l-2.2 1.5l0.7-2.5l-2.1-1.6l2.6-0.1zM156.2 327.1l0.9 2.5l2.6 0.1l-2.1 1.6l0.7 2.5l-2.2-1.5l-2.2 1.5l0.7-2.5l-2.1-1.6l2.6-0.1zM136.4 296.6l0.9 2.5l2.6 0.1l-2.1 1.6l0.7 2.5l-2.2-1.5l-2.2 1.5l0.7-2.5l-2.1-1.6l2.6-0.1zM135.1 307.4l0.9 2.5l2.6 0.1l-2.1 1.6l0.7 2.5l-2.2-1.5l-2.2 1.5l0.7-2.5l-2.1-1.6l2.6-0.1zM132.8 328.8l0.9 2.5l2.6 0.1l-2.1 1.6l0.7 2.5l-2.2-1.5l-2.2 1.5l0.7-2.5l-2.1-1.6l2.6-0.1zM129.3 319.3l0.9 2.5l2.6 0.1l-2.1 1.6l0.7 2.5l-2.2-1.5l-2.2 1.5l0.7-2.5l-2.1-1.6l2.6-0.1zM160 323.5l0.9 2.5l2.6 0.1l-2.1 1.6l0.7 2.5l-2.2-1.5l-2.2 1.5l0.7-2.5l-2.1-1.6l2.6-0.1zM108.7 296l0.9 2.5l2.6 0.1l-2.1 1.6l0.7 2.5l-2.2-1.5l-2.2 1.5l0.7-2.5l-2.1-1.6l2.6-0.1zM96 297.9l0.9 2.5l2.6 0.1l-2.1 1.6l0.7 2.5l-2.2-1.5l-2.2 1.5l0.7-2.5l-2.1-1.6l2.6-0.1zM122.8 314.3l0.9 2.5l2.6 0.1l-2.1 1.6l0.7 2.5l-2.2-1.5l-2.2 1.5l0.7-2.5l-2.1-1.6l2.6-0.1zM136.4 301.8l0.9 2.5l2.6 0.1l-2.1 1.6l0.7 2.5l-2.2-1.5l-2.2 1.5l0.7-2.5l-2.1-1.6l2.6-0.1zM160.7 337.5l0.9 2.5l2.6 0.1l-2.1 1.6l0.7 2.5l-2.2-1.5l-2.2 1.5l0.7-2.5l-2.1-1.6l2.6-0.1zM95.6 277.1l0.9 2.5l2.6 0.1l-2.1 1.6l0.7 2.5l-2.2-1.5l-2.2 1.5l0.7-2.5l-2.1-1.6l2.6-0.1zM111.2 296.8l0.9 2.5l2.6 0.1l-2.1 1.6l0.7 2.5l-2.2-1.5l-2.2 1.5l0.7-2.5l-2.1-1.6l2.6-0.1zM127.1 327.3l0.9 2.5l2.6 0.1l-2.1 1.6l0.7 2.5l-2.2-1.5l-2.2 1.5l0.7-2.5l-2.1-1.6l2.6-0.1zM103 308.6l0.9 2.5l2.6 0.1l-2.1 1.6l0.7 2.5l-2.2-1.5l-2.2 1.5l0.7-2.5l-2.1-1.6l2.6-0.1zM171.5 323.7l0.9 2.5l2.6 0.1l-2.1 1.6l0.7 2.5l-2.2-1.5l-2.2 1.5l0.7-2.5l-2.1-1.6l2.6-0.1zM123.9 316.9l0.9 2.5l2.6 0.1l-2.1 1.6l0.7 2.5l-2.2-1.5l-2.2 1.5l0.7-2.5l-2.1-1.6l2.6-0.1zM147.7 326.6l0.9 2.5l2.6 0.1l-2.1 1.6l0.7 2.5l-2.2-1.5l-2.2 1.5l0.7-2.5l-2.1-1.6l2.6-0.1zM122.1 302l0.9 2.5l2.6 0.1l-2.1 1.6l0.7 2.5l-2.2-1.5l-2.2 1.5l0.7-2.5l-2.1-1.6l2.6-0.1zM128.1 330.6l0.9 2.5l2.6 0.1l-2.1 1.6l0.7 2.5l-2.2-1.5l-2.2 1.5l0.7-2.5l-2.1-1.6l2.6-0.1zM73.3 277.2l0.9 2.5l2.6 0.1l-2.1 1.6l0.7 2.5l-2.2-1.5l-2.2 1.5l0.7-2.5l-2.1-1.6l2.6-0.1zM118.2 296.5l0.9 2.5l2.6 0.1l-2.1 1.6l0.7 2.5l-2.2-1.5l-2.2 1.5l0.7-2.5l-2.1-1.6l2.6-0.1zM105.4 293.9l0.9 2.5l2.6 0.1l-2.1 1.6l0.7 2.5l-2.2-1.5l-2.2 1.5l0.7-2.5l-2.1-1.6l2.6-0.1zM118.9 310.1l0.9 2.5l2.6 0.1l-2.1 1.6l0.7 2.5l-2.2-1.5l-2.2 1.5l0.7-2.5l-2.1-1.6l2.6-0.1zM234.9 352.9l0.9 2.5l2.6 0.1l-2.1 1.6l0.7 2.5l-2.2-1.5l-2.2 1.5l0.7-2.5l-2.1-1.6l2.6-0.1zM228.6 374.1l0.9 2.5l2.6 0.1l-2.1 1.6l0.7 2.5l-2.2-1.5l-2.2 1.5l0.7-2.5l-2.1-1.6l2.6-0.1zM123.4 309.9l0.9 2.5l2.6 0.1l-2.1 1.6l0.7 2.5l-2.2-1.5l-2.2 1.5l0.7-2.5l-2.1-1.6l2.6-0.1zM96.8 278.4l0.9 2.5l2.6 0.1l-2.1 1.6l0.7 2.5l-2.2-1.5l-2.2 1.5l0.7-2.5l-2.1-1.6l2.6-0.1zM97.9 279.7l0.9 2.5l2.6 0.1l-2.1 1.6l0.7 2.5l-2.2-1.5l-2.2 1.5l0.7-2.5l-2.1-1.6l2.6-0.1zM62.8 273.9l0.9 2.5l2.6 0.1l-2.1 1.6l0.7 2.5l-2.2-1.5l-2.2 1.5l0.7-2.5l-2.1-1.6l2.6-0.1zM62.8 279.7l0.9 2.5l2.6 0.1l-2.1 1.6l0.7 2.5l-2.2-1.5l-2.2 1.5l0.7-2.5l-2.1-1.6l2.6-0.1zM223.8 367.7l0.9 2.5l2.6 0.1l-2.1 1.6l0.7 2.5l-2.2-1.5l-2.2 1.5l0.7-2.5l-2.1-1.6l2.6-0.1zM223.8 361.2l0.9 2.5l2.6 0.1l-2.1 1.6l0.7 2.5l-2.2-1.5l-2.2 1.5l0.7-2.5l-2.1-1.6l2.6-0.1zM214.8 366.4l0.9 2.5l2.6 0.1l-2.1 1.6l0.7 2.5l-2.2-1.5l-2.2 1.5l0.7-2.5l-2.1-1.6l2.6-0.1zM207.3 367.7l0.9 2.5l2.6 0.1l-2.1 1.6l0.7 2.5l-2.2-1.5l-2.2 1.5l0.7-2.5l-2.1-1.6l2.6-0.1zM202 360l0.9 2.5l2.6 0.1l-2.1 1.6l0.7 2.5l-2.2-1.5l-2.2 1.5l0.7-2.5l-2.1-1.6l2.6-0.1zM191.4 360.6l0.9 2.5l2.6 0.1l-2.1 1.6l0.7 2.5l-2.2-1.5l-2.2 1.5l0.7-2.5l-2.1-1.6l2.6-0.1zM189.3 363.8l0.9 2.5l2.6 0.1l-2.1 1.6l0.7 2.5l-2.2-1.5l-2.2 1.5l0.7-2.5l-2.1-1.6l2.6-0.1zM195.6 361.2l0.9 2.5l2.6 0.1l-2.1 1.6l0.7 2.5l-2.2-1.5l-2.2 1.5l0.7-2.5l-2.1-1.6l2.6-0.1zM215.8 349.7l0.9 2.5l2.6 0.1l-2.1 1.6l0.7 2.5l-2.2-1.5l-2.2 1.5l0.7-2.5l-2.1-1.6l2.6-0.1zM189.3 348.4l0.9 2.5l2.6 0.1l-2.1 1.6l0.7 2.5l-2.2-1.5l-2.2 1.5l0.7-2.5l-2.1-1.6l2.6-0.1zM94.7 269.4l0.9 2.5l2.6 0.1l-2.1 1.6l0.7 2.5l-2.2-1.5l-2.2 1.5l0.7-2.5l-2.1-1.6l2.6-0.1zM85.1 271.4l0.9 2.5l2.6 0.1l-2.1 1.6l0.7 2.5l-2.2-1.5l-2.2 1.5l0.7-2.5l-2.1-1.6l2.6-0.1zM69.2 301.5l0.9 2.5l2.6 0.1l-2.1 1.6l0.7 2.5l-2.2-1.5l-2.2 1.5l0.7-2.5l-2.1-1.6l2.6-0.1zM74.5 308.6l0.9 2.5l2.6 0.1l-2.1 1.6l0.7 2.5l-2.2-1.5l-2.2 1.5l0.7-2.5l-2.1-1.6l2.6-0.1zM84.1 322.7l0.9 2.5l2.6 0.1l-2.1 1.6l0.7 2.5l-2.2-1.5l-2.2 1.5l0.7-2.5l-2.1-1.6l2.6-0.1zM123.4 345.2l0.9 2.5l2.6 0.1l-2.1 1.6l0.7 2.5l-2.2-1.5l-2.2 1.5l0.7-2.5l-2.1-1.6l2.6-0.1zM142.5 351.6l0.9 2.5l2.6 0.1l-2.1 1.6l0.7 2.5l-2.2-1.5l-2.2 1.5l0.7-2.5l-2.1-1.6l2.6-0.1zM110.6 297.1l0.9 2.5l2.6 0.1l-2.1 1.6l0.7 2.5l-2.2-1.5l-2.2 1.5l0.7-2.5l-2.1-1.6l2.6-0.1zM120.2 303.5l0.9 2.5l2.6 0.1l-2.1 1.6l0.7 2.5l-2.2-1.5l-2.2 1.5l0.7-2.5l-2.1-1.6l2.6-0.1zM149.9 316.3l0.9 2.5l2.6 0.1l-2.1 1.6l0.7 2.5l-2.2-1.5l-2.2 1.5l0.7-2.5l-2.1-1.6l2.6-0.1zM131.9 325.9l0.9 2.5l2.6 0.1l-2.1 1.6l0.7 2.5l-2.2-1.5l-2.2 1.5l0.7-2.5l-2.1-1.6l2.6-0.1zM103.2 333.6l0.9 2.5l2.6 0.1l-2.1 1.6l0.7 2.5l-2.2-1.5l-2.2 1.5l0.7-2.5l-2.1-1.6l2.6-0.1zM196.7 336.9l0.9 2.5l2.6 0.1l-2.1 1.6l0.7 2.5l-2.2-1.5l-2.2 1.5l0.7-2.5l-2.1-1.6l2.6-0.1zM179.7 344.6l0.9 2.5l2.6 0.1l-2.1 1.6l0.7 2.5l-2.2-1.5l-2.2 1.5l0.7-2.5l-2.1-1.6l2.6-0.1zM83 295.1l0.9 2.5l2.6 0.1l-2.1 1.6l0.7 2.5l-2.2-1.5l-2.2 1.5l0.7-2.5l-2.1-1.6l2.6-0.1zM126.6 342l0.9 2.5l2.6 0.1l-2.1 1.6l0.7 2.5l-2.2-1.5l-2.2 1.5l0.7-2.5l-2.1-1.6l2.6-0.1zM158.4 326.6l0.9 2.5l2.6 0.1l-2.1 1.6l0.7 2.5l-2.2-1.5l-2.2 1.5l0.7-2.5l-2.1-1.6l2.6-0.1zM163.8 331.1l0.9 2.5l2.6 0.1l-2.1 1.6l0.7 2.5l-2.2-1.5l-2.2 1.5l0.7-2.5l-2.1-1.6l2.6-0.1zM180.8 338.8l0.9 2.5l2.6 0.1l-2.1 1.6l0.7 2.5l-2.2-1.5l-2.2 1.5l0.7-2.5l-2.1-1.6l2.6-0.1zM69.7 275.9l0.9 2.5l2.6 0.1l-2.1 1.6l0.7 2.5l-2.2-1.5l-2.2 1.5l0.7-2.5l-2.1-1.6l2.6-0.1zM71.3 280.4l0.9 2.5l2.6 0.1l-2.1 1.6l0.7 2.5l-2.2-1.5l-2.2 1.5l0.7-2.5l-2.1-1.6l2.6-0.1zM68.1 281.6l0.9 2.5l2.6 0.1l-2.1 1.6l0.7 2.5l-2.2-1.5l-2.2 1.5l0.7-2.5l-2.1-1.6l2.6-0.1zM75 284.9l0.9 2.5l2.6 0.1l-2.1 1.6l0.7 2.5l-2.2-1.5l-2.2 1.5l0.7-2.5l-2.1-1.6l2.6-0.1zM77.7 278.4l0.9 2.5l2.6 0.1l-2.1 1.6l0.7 2.5l-2.2-1.5l-2.2 1.5l0.7-2.5l-2.1-1.6l2.6-0.1zM77.7 283.6l0.9 2.5l2.6 0.1l-2.1 1.6l0.7 2.5l-2.2-1.5l-2.2 1.5l0.7-2.5l-2.1-1.6l2.6-0.1zM207.3 349.7l0.9 2.5l2.6 0.1l-2.1 1.6l0.7 2.5l-2.2-1.5l-2.2 1.5l0.7-2.5l-2.1-1.6l2.6-0.1zM206.3 343.3l0.9 2.5l2.6 0.1l-2.1 1.6l0.7 2.5l-2.2-1.5l-2.2 1.5l0.7-2.5l-2.1-1.6l2.6-0.1zM209.5 342l0.9 2.5l2.6 0.1l-2.1 1.6l0.7 2.5l-2.2-1.5l-2.2 1.5l0.7-2.5l-2.1-1.6l2.6-0.1z"/>
<path d="M43.7 237.4H256.2V397.1H43.7Z" fill="none" stroke="#3c3c3c" stroke-width="0.95"/>
<path d="M96.8 397.1v-2.2M96.8 237.4v2.2M149.9 397.1v-2.2M149.9 237.4v2.2M203.1 397.1v-2.2M203.1 237.4v2.2M43.7 365h2.2M256.2 365h-2.2M43.7 332.9h2.2M256.2 332.9h-2.2M43.7 300.8h2.2M256.2 300.8h-2.2M43.7 268.7h2.2M256.2 268.7h-2.2" fill="none" stroke="#3c3c3c" stroke-width="0.8"/>
<text x="41.35" y="411.60" font-size="12.9" textLength="5.70" lengthAdjust="spacingAndGlyphs">5</text>
<text x="91.42" y="411.60" font-size="12.9" textLength="11.80" lengthAdjust="spacingAndGlyphs">10</text>
<text x="144.55" y="411.60" font-size="12.9" textLength="11.80" lengthAdjust="spacingAndGlyphs">15</text>
<text x="197.67" y="411.60" font-size="12.9" textLength="11.80" lengthAdjust="spacingAndGlyphs">20</text>
<text x="250.80" y="411.60" font-size="12.9" textLength="11.80" lengthAdjust="spacingAndGlyphs">25</text>
<text x="29.00" y="400.10" font-size="12.9" textLength="11.80" lengthAdjust="spacingAndGlyphs">50</text>
<text x="29.00" y="368.00" font-size="12.9" textLength="11.80" lengthAdjust="spacingAndGlyphs">55</text>
<text x="29.00" y="335.90" font-size="12.9" textLength="11.80" lengthAdjust="spacingAndGlyphs">60</text>
<text x="29.00" y="303.80" font-size="12.9" textLength="11.80" lengthAdjust="spacingAndGlyphs">65</text>
<text x="29.00" y="271.70" font-size="12.9" textLength="11.80" lengthAdjust="spacingAndGlyphs">70</text>
<text x="144.09" y="433.20" font-size="14" textLength="6.21" lengthAdjust="spacingAndGlyphs">a</text>
<text x="150.43" y="426.00" font-size="9.5" textLength="4.75" lengthAdjust="spacingAndGlyphs">*</text>
<text x="17.60" y="319.80" font-size="14" textLength="6.80" lengthAdjust="spacingAndGlyphs" transform="rotate(-90 21.00 319.80)">L</text>
<text x="10.72" y="314.10" font-size="9.5" textLength="4.75" lengthAdjust="spacingAndGlyphs" transform="rotate(-90 13.10 314.10)">*</text>
<text x="140.10" y="448.60" font-size="12.0" textLength="13.80" lengthAdjust="spacingAndGlyphs">(c)</text>
<path fill="#0072BD" stroke="#0072BD" stroke-width="0.7" stroke-linejoin="round" d="M423.8 283.3l0.9 2.5l2.6 0.1l-2.1 1.6l0.7 2.5l-2.2-1.5l-2.2 1.5l0.7-2.5l-2.1-1.6l2.6-0.1zM432.5 280.8l0.9 2.5l2.6 0.1l-2.1 1.6l0.7 2.5l-2.2-1.5l-2.2 1.5l0.7-2.5l-2.1-1.6l2.6-0.1zM417.8 283l0.9 2.5l2.6 0.1l-2.1 1.6l0.7 2.5l-2.2-1.5l-2.2 1.5l0.7-2.5l-2.1-1.6l2.6-0.1zM428.6 305.4l0.9 2.5l2.6 0.1l-2.1 1.6l0.7 2.5l-2.2-1.5l-2.2 1.5l0.7-2.5l-2.1-1.6l2.6-0.1zM464 288.5l0.9 2.5l2.6 0.1l-2.1 1.6l0.7 2.5l-2.2-1.5l-2.2 1.5l0.7-2.5l-2.1-1.6l2.6-0.1zM430.5 321.3l0.9 2.5l2.6 0.1l-2.1 1.6l0.7 2.5l-2.2-1.5l-2.2 1.5l0.7-2.5l-2.1-1.6l2.6-0.1zM403.6 290.6l0.9 2.5l2.6 0.1l-2.1 1.6l0.7 2.5l-2.2-1.5l-2.2 1.5l0.7-2.5l-2.1-1.6l2.6-0.1zM390.8 309l0.9 2.5l2.6 0.1l-2.1 1.6l0.7 2.5l-2.2-1.5l-2.2 1.5l0.7-2.5l-2.1-1.6l2.6-0.1zM454.4 299.5l0.9 2.5l2.6 0.1l-2.1 1.6l0.7 2.5l-2.2-1.5l-2.2 1.5l0.7-2.5l-2.1-1.6l2.6-0.1zM412.2 310.9l0.9 2.5l2.6 0.1l-2.1 1.6l0.7 2.5l-2.2-1.5l-2.2 1.5l0.7-2.5l-2.1-1.6l2.6-0.1zM434.6 310.8l0.9 2.5l2.6 0.1l-2.1 1.6l0.7 2.5l-2.2-1.5l-2.2 1.5l0.7-2.5l-2.1-1.6l2.6-0.1zM420.5 345.8l0.9 2.5l2.6 0.1l-2.1 1.6l0.7 2.5l-2.2-1.5l-2.2 1.5l0.7-2.5l-2.1-1.6l2.6-0.1zM454.7 292.3l0.9 2.5l2.6 0.1l-2.1 1.6l0.7 2.5l-2.2-1.5l-2.2 1.5l0.7-2.5l-2.1-1.6l2.6-0.1zM402.4 277.1l0.9 2.5l2.6 0.1l-2.1 1.6l0.7 2.5l-2.2-1.5l-2.2 1.5l0.7-2.5l-2.1-1.6l2.6-0.1zM404.2 312l0.9 2.5l2.6 0.1l-2.1 1.6l0.7 2.5l-2.2-1.5l-2.2 1.5l0.7-2.5l-2.1-1.6l2.6-0.1zM390.5 322.1l0.9 2.5l2.6 0.1l-2.1 1.6l0.7 2.5l-2.2-1.5l-2.2 1.5l0.7-2.5l-2.1-1.6l2.6-0.1zM434.4 298.2l0.9 2.5l2.6 0.1l-2.1 1.6l0.7 2.5l-2.2-1.5l-2.2 1.5l0.7-2.5l-2.1-1.6l2.6-0.1zM414.1 294.3l0.9 2.5l2.6 0.1l-2.1 1.6l0.7 2.5l-2.2-1.5l-2.2 1.5l0.7-2.5l-2.1-1.6l2.6-0.1zM415.8 337.1l0.9 2.5l2.6 0.1l-2.1 1.6l0.7 2.5l-2.2-1.5l-2.2 1.5l0.7-2.5l-2.1-1.6l2.6-0.1zM416.8 306.5l0.9 2.5l2.6 0.1l-2.1 1.6l0.7 2.5l-2.2-1.5l-2.2 1.5l0.7-2.5l-2.1-1.6l2.6-0.1zM416.4 308.2l0.9 2.5l2.6 0.1l-2.1 1.6l0.7 2.5l-2.2-1.5l-2.2 1.5l0.7-2.5l-2.1-1.6l2.6-0.1zM451.8 301.1l0.9 2.5l2.6 0.1l-2.1 1.6l0.7 2.5l-2.2-1.5l-2.2 1.5l0.7-2.5l-2.1-1.6l2.6-0.1zM433.7 317.8l0.9 2.5l2.6 0.1l-2.1 1.6l0.7 2.5l-2.2-1.5l-2.2 1.5l0.7-2.5l-2.1-1.6l2.6-0.1zM421.5 339.6l0.9 2.5l2.6 0.1l-2.1 1.6l0.7 2.5l-2.2-1.5l-2.2 1.5l0.7-2.5l-2.1-1.6l2.6-0.1zM399 306l0.9 2.5l2.6 0.1l-2.1 1.6l0.7 2.5l-2.2-1.5l-2.2 1.5l0.7-2.5l-2.1-1.6l2.6-0.1zM402.5 329.2l0.9 2.5l2.6 0.1l-2.1 1.6l0.7 2.5l-2.2-1.5l-2.2 1.5l0.7-2.5l-2.1-1.6l2.6-0.1zM418.6 345l0.9 2.5l2.6 0.1l-2.1 1.6l0.7 2.5l-2.2-1.5l-2.2 1.5l0.7-2.5l-2.1-1.6l2.6-0.1zM423.5 323.4l0.9 2.5l2.6 0.1l-2.1 1.6l0.7 2.5l-2.2-1.5l-2.2 1.5l0.7-2.5l-2.1-1.6l2.6-0.1zM408.4 316l0.9 2.5l2.6 0.1l-2.1 1.6l0.7 2.5l-2.2-1.5l-2.2 1.5l0.7-2.5l-2.1-1.6l2.6-0.1zM436.3 324.9l0.9 2.5l2.6 0.1l-2.1 1.6l0.7 2.5l-2.2-1.5l-2.2 1.5l0.7-2.5l-2.1-1.6l2.6-0.1zM427.3 307.4l0.9 2.5l2.6 0.1l-2.1 1.6l0.7 2.5l-2.2-1.5l-2.2 1.5l0.7-2.5l-2.1-1.6l2.6-0.1zM437.1 280.9l0.9 2.5l2.6 0.1l-2.1 1.6l0.7 2.5l-2.2-1.5l-2.2 1.5l0.7-2.5l-2.1-1.6l2.6-0.1zM408.7 288.9l0.9 2.5l2.6 0.1l-2.1 1.6l0.7 2.5l-2.2-1.5l-2.2 1.5l0.7-2.5l-2.1-1.6l2.6-0.1zM405.2 304.2l0.9 2.5l2.6 0.1l-2.1 1.6l0.7 2.5l-2.2-1.5l-2.2 1.5l0.7-2.5l-2.1-1.6l2.6-0.1zM456.7 317.4l0.9 2.5l2.6 0.1l-2.1 1.6l0.7 2.5l-2.2-1.5l-2.2 1.5l0.7-2.5l-2.1-1.6l2.6-0.1zM387.1 317l0.9 2.5l2.6 0.1l-2.1 1.6l0.7 2.5l-2.2-1.5l-2.2 1.5l0.7-2.5l-2.1-1.6l2.6-0.1zM405.4 338.9l0.9 2.5l2.6 0.1l-2.1 1.6l0.7 2.5l-2.2-1.5l-2.2 1.5l0.7-2.5l-2.1-1.6l2.6-0.1zM418.5 335.6l0.9 2.5l2.6 0.1l-2.1 1.6l0.7 2.5l-2.2-1.5l-2.2 1.5l0.7-2.5l-2.1-1.6l2.6-0.1zM445.9 335.2l0.9 2.5l2.6 0.1l-2.1 1.6l0.7 2.5l-2.2-1.5l-2.2 1.5l0.7-2.5l-2.1-1.6l2.6-0.1zM423.9 338.3l0.9 2.5l2.6 0.1l-2.1 1.6l0.7 2.5l-2.2-1.5l-2.2 1.5l0.7-2.5l-2.1-1.6l2.6-0.1zM403.1 309.1l0.9 2.5l2.6 0.1l-2.1 1.6l0.7 2.5l-2.2-1.5l-2.2 1.5l0.7-2.5l-2.1-1.6l2.6-0.1zM390.8 289.8l0.9 2.5l2.6 0.1l-2.1 1.6l0.7 2.5l-2.2-1.5l-2.2 1.5l0.7-2.5l-2.1-1.6l2.6-0.1zM444.7 296.8l0.9 2.5l2.6 0.1l-2.1 1.6l0.7 2.5l-2.2-1.5l-2.2 1.5l0.7-2.5l-2.1-1.6l2.6-0.1zM459.3 301.2l0.9 2.5l2.6 0.1l-2.1 1.6l0.7 2.5l-2.2-1.5l-2.2 1.5l0.7-2.5l-2.1-1.6l2.6-0.1zM433.8 294.8l0.9 2.5l2.6 0.1l-2.1 1.6l0.7 2.5l-2.2-1.5l-2.2 1.5l0.7-2.5l-2.1-1.6l2.6-0.1zM406.1 314.7l0.9 2.5l2.6 0.1l-2.1 1.6l0.7 2.5l-2.2-1.5l-2.2 1.5l0.7-2.5l-2.1-1.6l2.6-0.1zM388.2 306.2l0.9 2.5l2.6 0.1l-2.1 1.6l0.7 2.5l-2.2-1.5l-2.2 1.5l0.7-2.5l-2.1-1.6l2.6-0.1zM412.9 283.9l0.9 2.5l2.6 0.1l-2.1 1.6l0.7 2.5l-2.2-1.5l-2.2 1.5l0.7-2.5l-2.1-1.6l2.6-0.1zM399.5 284.3l0.9 2.5l2.6 0.1l-2.1 1.6l0.7 2.5l-2.2-1.5l-2.2 1.5l0.7-2.5l-2.1-1.6l2.6-0.1zM430 312.3l0.9 2.5l2.6 0.1l-2.1 1.6l0.7 2.5l-2.2-1.5l-2.2 1.5l0.7-2.5l-2.1-1.6l2.6-0.1zM428.2 326.4l0.9 2.5l2.6 0.1l-2.1 1.6l0.7 2.5l-2.2-1.5l-2.2 1.5l0.7-2.5l-2.1-1.6l2.6-0.1zM430 323.3l0.9 2.5l2.6 0.1l-2.1 1.6l0.7 2.5l-2.2-1.5l-2.2 1.5l0.7-2.5l-2.1-1.6l2.6-0.1zM389.2 321.7l0.9 2.5l2.6 0.1l-2.1 1.6l0.7 2.5l-2.2-1.5l-2.2 1.5l0.7-2.5l-2.1-1.6l2.6-0.1zM410.1 318.7l0.9 2.5l2.6 0.1l-2.1 1.6l0.7 2.5l-2.2-1.5l-2.2 1.5l0.7-2.5l-2.1-1.6l2.6-0.1zM458.3 320.4l0.9 2.5l2.6 0.1l-2.1 1.6l0.7 2.5l-2.2-1.5l-2.2 1.5l0.7-2.5l-2.1-1.6l2.6-0.1zM421.2 327l0.9 2.5l2.6 0.1l-2.1 1.6l0.7 2.5l-2.2-1.5l-2.2 1.5l0.7-2.5l-2.1-1.6l2.6-0.1zM440.9 320.5l0.9 2.5l2.6 0.1l-2.1 1.6l0.7 2.5l-2.2-1.5l-2.2 1.5l0.7-2.5l-2.1-1.6l2.6-0.1zM391.9 297.2l0.9 2.5l2.6 0.1l-2.1 1.6l0.7 2.5l-2.2-1.5l-2.2 1.5l0.7-2.5l-2.1-1.6l2.6-0.1zM414.5 311l0.9 2.5l2.6 0.1l-2.1 1.6l0.7 2.5l-2.2-1.5l-2.2 1.5l0.7-2.5l-2.1-1.6l2.6-0.1zM404 323.9l0.9 2.5l2.6 0.1l-2.1 1.6l0.7 2.5l-2.2-1.5l-2.2 1.5l0.7-2.5l-2.1-1.6l2.6-0.1zM386.6 330.4l0.9 2.5l2.6 0.1l-2.1 1.6l0.7 2.5l-2.2-1.5l-2.2 1.5l0.7-2.5l-2.1-1.6l2.6-0.1zM400.2 294.4l0.9 2.5l2.6 0.1l-2.1 1.6l0.7 2.5l-2.2-1.5l-2.2 1.5l0.7-2.5l-2.1-1.6l2.6-0.1zM429.6 321l0.9 2.5l2.6 0.1l-2.1 1.6l0.7 2.5l-2.2-1.5l-2.2 1.5l0.7-2.5l-2.1-1.6l2.6-0.1zM399.1 309.2l0.9 2.5l2.6 0.1l-2.1 1.6l0.7 2.5l-2.2-1.5l-2.2 1.5l0.7-2.5l-2.1-1.6l2.6-0.1zM427.8 294.1l0.9 2.5l2.6 0.1l-2.1 1.6l0.7 2.5l-2.2-1.5l-2.2 1.5l0.7-2.5l-2.1-1.6l2.6-0.1zM449.7 306.6l0.9 2.5l2.6 0.1l-2.1 1.6l0.7 2.5l-2.2-1.5l-2.2 1.5l0.7-2.5l-2.1-1.6l2.6-0.1zM399.7 274.9l0.9 2.5l2.6 0.1l-2.1 1.6l0.7 2.5l-2.2-1.5l-2.2 1.5l0.7-2.5l-2.1-1.6l2.6-0.1zM452.1 295.8l0.9 2.5l2.6 0.1l-2.1 1.6l0.7 2.5l-2.2-1.5l-2.2 1.5l0.7-2.5l-2.1-1.6l2.6-0.1zM446.1 300.5l0.9 2.5l2.6 0.1l-2.1 1.6l0.7 2.5l-2.2-1.5l-2.2 1.5l0.7-2.5l-2.1-1.6l2.6-0.1zM387.8 285.1l0.9 2.5l2.6 0.1l-2.1 1.6l0.7 2.5l-2.2-1.5l-2.2 1.5l0.7-2.5l-2.1-1.6l2.6-0.1zM409.2 289.2l0.9 2.5l2.6 0.1l-2.1 1.6l0.7 2.5l-2.2-1.5l-2.2 1.5l0.7-2.5l-2.1-1.6l2.6-0.1zM399.7 288.1l0.9 2.5l2.6 0.1l-2.1 1.6l0.7 2.5l-2.2-1.5l-2.2 1.5l0.7-2.5l-2.1-1.6l2.6-0.1zM378.4 295.1l0.9 2.5l2.6 0.1l-2.1 1.6l0.7 2.5l-2.2-1.5l-2.2 1.5l0.7-2.5l-2.1-1.6l2.6-0.1zM388.4 298.8l0.9 2.5l2.6 0.1l-2.1 1.6l0.7 2.5l-2.2-1.5l-2.2 1.5l0.7-2.5l-2.1-1.6l2.6-0.1zM466.4 318.8l0.9 2.5l2.6 0.1l-2.1 1.6l0.7 2.5l-2.2-1.5l-2.2 1.5l0.7-2.5l-2.1-1.6l2.6-0.1zM405.4 337.4l0.9 2.5l2.6 0.1l-2.1 1.6l0.7 2.5l-2.2-1.5l-2.2 1.5l0.7-2.5l-2.1-1.6l2.6-0.1zM420.3 287.2l0.9 2.5l2.6 0.1l-2.1 1.6l0.7 2.5l-2.2-1.5l-2.2 1.5l0.7-2.5l-2.1-1.6l2.6-0.1zM440.1 338.8l0.9 2.5l2.6 0.1l-2.1 1.6l0.7 2.5l-2.2-1.5l-2.2 1.5l0.7-2.5l-2.1-1.6l2.6-0.1zM414.5 305l0.9 2.5l2.6 0.1l-2.1 1.6l0.7 2.5l-2.2-1.5l-2.2 1.5l0.7-2.5l-2.1-1.6l2.6-0.1zM435.7 322.6l0.9 2.5l2.6 0.1l-2.1 1.6l0.7 2.5l-2.2-1.5l-2.2 1.5l0.7-2.5l-2.1-1.6l2.6-0.1zM434.4 311.4l0.9 2.5l2.6 0.1l-2.1 1.6l0.7 2.5l-2.2-1.5l-2.2 1.5l0.7-2.5l-2.1-1.6l2.6-0.1zM422.5 294.8l0.9 2.5l2.6 0.1l-2.1 1.6l0.7 2.5l-2.2-1.5l-2.2 1.5l0.7-2.5l-2.1-1.6l2.6-0.1zM436 307.7l0.9 2.5l2.6 0.1l-2.1 1.6l0.7 2.5l-2.2-1.5l-2.2 1.5l0.7-2.5l-2.1-1.6l2.6-0.1zM460.9 316.3l0.9 2.5l2.6 0.1l-2.1 1.6l0.7 2.5l-2.2-1.5l-2.2 1.5l0.7-2.5l-2.1-1.6l2.6-0.1zM415.2 329.8l0.9 2.5l2.6 0.1l-2.1 1.6l0.7 2.5l-2.2-1.5l-2.2 1.5l0.7-2.5l-2.1-1.6l2.6-0.1zM426.6 339.6l0.9 2.5l2.6 0.1l-2.1 1.6l0.7 2.5l-2.2-1.5l-2.2 1.5l0.7-2.5l-2.1-1.6l2.6-0.1zM434.7 314.1l0.9 2.5l2.6 0.1l-2.1 1.6l0.7 2.5l-2.2-1.5l-2.2 1.5l0.7-2.5l-2.1-1.6l2.6-0.1zM437.1 326.8l0.9 2.5l2.6 0.1l-2.1 1.6l0.7 2.5l-2.2-1.5l-2.2 1.5l0.7-2.5l-2.1-1.6l2.6-0.1zM424.3 304.9l0.9 2.5l2.6 0.1l-2.1 1.6l0.7 2.5l-2.2-1.5l-2.2 1.5l0.7-2.5l-2.1-1.6l2.6-0.1zM437.2 294.6l0.9 2.5l2.6 0.1l-2.1 1.6l0.7 2.5l-2.2-1.5l-2.2 1.5l0.7-2.5l-2.1-1.6l2.6-0.1zM395.8 315.6l0.9 2.5l2.6 0.1l-2.1 1.6l0.7 2.5l-2.2-1.5l-2.2 1.5l0.7-2.5l-2.1-1.6l2.6-0.1zM395.5 304.5l0.9 2.5l2.6 0.1l-2.1 1.6l0.7 2.5l-2.2-1.5l-2.2 1.5l0.7-2.5l-2.1-1.6l2.6-0.1zM395.9 302l0.9 2.5l2.6 0.1l-2.1 1.6l0.7 2.5l-2.2-1.5l-2.2 1.5l0.7-2.5l-2.1-1.6l2.6-0.1zM448.9 340.9l0.9 2.5l2.6 0.1l-2.1 1.6l0.7 2.5l-2.2-1.5l-2.2 1.5l0.7-2.5l-2.1-1.6l2.6-0.1zM430.1 347l0.9 2.5l2.6 0.1l-2.1 1.6l0.7 2.5l-2.2-1.5l-2.2 1.5l0.7-2.5l-2.1-1.6l2.6-0.1zM429 310.3l0.9 2.5l2.6 0.1l-2.1 1.6l0.7 2.5l-2.2-1.5l-2.2 1.5l0.7-2.5l-2.1-1.6l2.6-0.1zM450.6 309.7l0.9 2.5l2.6 0.1l-2.1 1.6l0.7 2.5l-2.2-1.5l-2.2 1.5l0.7-2.5l-2.1-1.6l2.6-0.1zM433.7 296.1l0.9 2.5l2.6 0.1l-2.1 1.6l0.7 2.5l-2.2-1.5l-2.2 1.5l0.7-2.5l-2.1-1.6l2.6-0.1zM432 333.5l0.9 2.5l2.6 0.1l-2.1 1.6l0.7 2.5l-2.2-1.5l-2.2 1.5l0.7-2.5l-2.1-1.6l2.6-0.1zM420.6 279.7l0.9 2.5l2.6 0.1l-2.1 1.6l0.7 2.5l-2.2-1.5l-2.2 1.5l0.7-2.5l-2.1-1.6l2.6-0.1zM382.1 326.9l0.9 2.5l2.6 0.1l-2.1 1.6l0.7 2.5l-2.2-1.5l-2.2 1.5l0.7-2.5l-2.1-1.6l2.6-0.1zM443.3 326.1l0.9 2.5l2.6 0.1l-2.1 1.6l0.7 2.5l-2.2-1.5l-2.2 1.5l0.7-2.5l-2.1-1.6l2.6-0.1zM439.1 321l0.9 2.5l2.6 0.1l-2.1 1.6l0.7 2.5l-2.2-1.5l-2.2 1.5l0.7-2.5l-2.1-1.6l2.6-0.1zM409.3 315.8l0.9 2.5l2.6 0.1l-2.1 1.6l0.7 2.5l-2.2-1.5l-2.2 1.5l0.7-2.5l-2.1-1.6l2.6-0.1zM442.6 347.3l0.9 2.5l2.6 0.1l-2.1 1.6l0.7 2.5l-2.2-1.5l-2.2 1.5l0.7-2.5l-2.1-1.6l2.6-0.1zM405.4 295.2l0.9 2.5l2.6 0.1l-2.1 1.6l0.7 2.5l-2.2-1.5l-2.2 1.5l0.7-2.5l-2.1-1.6l2.6-0.1zM413.2 288.9l0.9 2.5l2.6 0.1l-2.1 1.6l0.7 2.5l-2.2-1.5l-2.2 1.5l0.7-2.5l-2.1-1.6l2.6-0.1zM393.6 295l0.9 2.5l2.6 0.1l-2.1 1.6l0.7 2.5l-2.2-1.5l-2.2 1.5l0.7-2.5l-2.1-1.6l2.6-0.1zM430.7 326l0.9 2.5l2.6 0.1l-2.1 1.6l0.7 2.5l-2.2-1.5l-2.2 1.5l0.7-2.5l-2.1-1.6l2.6-0.1zM415.7 303.8l0.9 2.5l2.6 0.1l-2.1 1.6l0.7 2.5l-2.2-1.5l-2.2 1.5l0.7-2.5l-2.1-1.6l2.6-0.1zM389.7 296.8l0.9 2.5l2.6 0.1l-2.1 1.6l0.7 2.5l-2.2-1.5l-2.2 1.5l0.7-2.5l-2.1-1.6l2.6-0.1zM426.6 323.7l0.9 2.5l2.6 0.1l-2.1 1.6l0.7 2.5l-2.2-1.5l-2.2 1.5l0.7-2.5l-2.1-1.6l2.6-0.1zM456.3 317.1l0.9 2.5l2.6 0.1l-2.1 1.6l0.7 2.5l-2.2-1.5l-2.2 1.5l0.7-2.5l-2.1-1.6l2.6-0.1zM441 319.5l0.9 2.5l2.6 0.1l-2.1 1.6l0.7 2.5l-2.2-1.5l-2.2 1.5l0.7-2.5l-2.1-1.6l2.6-0.1zM407.9 278.7l0.9 2.5l2.6 0.1l-2.1 1.6l0.7 2.5l-2.2-1.5l-2.2 1.5l0.7-2.5l-2.1-1.6l2.6-0.1zM460 306.8l0.9 2.5l2.6 0.1l-2.1 1.6l0.7 2.5l-2.2-1.5l-2.2 1.5l0.7-2.5l-2.1-1.6l2.6-0.1zM448.6 291.7l0.9 2.5l2.6 0.1l-2.1 1.6l0.7 2.5l-2.2-1.5l-2.2 1.5l0.7-2.5l-2.1-1.6l2.6-0.1zM438.9 315.8l0.9 2.5l2.6 0.1l-2.1 1.6l0.7 2.5l-2.2-1.5l-2.2 1.5l0.7-2.5l-2.1-1.6l2.6-0.1zM471.5 308.3l0.9 2.5l2.6 0.1l-2.1 1.6l0.7 2.5l-2.2-1.5l-2.2 1.5l0.7-2.5l-2.1-1.6l2.6-0.1zM438 325.9l0.9 2.5l2.6 0.1l-2.1 1.6l0.7 2.5l-2.2-1.5l-2.2 1.5l0.7-2.5l-2.1-1.6l2.6-0.1zM434.9 293l0.9 2.5l2.6 0.1l-2.1 1.6l0.7 2.5l-2.2-1.5l-2.2 1.5l0.7-2.5l-2.1-1.6l2.6-0.1zM403.7 339.4l0.9 2.5l2.6 0.1l-2.1 1.6l0.7 2.5l-2.2-1.5l-2.2 1.5l0.7-2.5l-2.1-1.6l2.6-0.1zM457.5 327l0.9 2.5l2.6 0.1l-2.1 1.6l0.7 2.5l-2.2-1.5l-2.2 1.5l0.7-2.5l-2.1-1.6l2.6-0.1zM413.2 279.2l0.9 2.5l2.6 0.1l-2.1 1.6l0.7 2.5l-2.2-1.5l-2.2 1.5l0.7-2.5l-2.1-1.6l2.6-0.1zM439.2 311.2l0.9 2.5l2.6 0.1l-2.1 1.6l0.7 2.5l-2.2-1.5l-2.2 1.5l0.7-2.5l-2.1-1.6l2.6-0.1zM414 306.2l0.9 2.5l2.6 0.1l-2.1 1.6l0.7 2.5l-2.2-1.5l-2.2 1.5l0.7-2.5l-2.1-1.6l2.6-0.1zM412 300.8l0.9 2.5l2.6 0.1l-2.1 1.6l0.7 2.5l-2.2-1.5l-2.2 1.5l0.7-2.5l-2.1-1.6l2.6-0.1zM377.2 321.1l0.9 2.5l2.6 0.1l-2.1 1.6l0.7 2.5l-2.2-1.5l-2.2 1.5l0.7-2.5l-2.1-1.6l2.6-0.1zM420.4 331.1l0.9 2.5l2.6 0.1l-2.1 1.6l0.7 2.5l-2.2-1.5l-2.2 1.5l0.7-2.5l-2.1-1.6l2.6-0.1zM464 293.7l0.9 2.5l2.6 0.1l-2.1 1.6l0.7 2.5l-2.2-1.5l-2.2 1.5l0.7-2.5l-2.1-1.6l2.6-0.1zM434.4 294.5l0.9 2.5l2.6 0.1l-2.1 1.6l0.7 2.5l-2.2-1.5l-2.2 1.5l0.7-2.5l-2.1-1.6l2.6-0.1zM392.8 333.5l0.9 2.5l2.6 0.1l-2.1 1.6l0.7 2.5l-2.2-1.5l-2.2 1.5l0.7-2.5l-2.1-1.6l2.6-0.1zM432.8 333l0.9 2.5l2.6 0.1l-2.1 1.6l0.7 2.5l-2.2-1.5l-2.2 1.5l0.7-2.5l-2.1-1.6l2.6-0.1zM396.2 325.7l0.9 2.5l2.6 0.1l-2.1 1.6l0.7 2.5l-2.2-1.5l-2.2 1.5l0.7-2.5l-2.1-1.6l2.6-0.1zM407.4 313.6l0.9 2.5l2.6 0.1l-2.1 1.6l0.7 2.5l-2.2-1.5l-2.2 1.5l0.7-2.5l-2.1-1.6l2.6-0.1zM438.2 322.3l0.9 2.5l2.6 0.1l-2.1 1.6l0.7 2.5l-2.2-1.5l-2.2 1.5l0.7-2.5l-2.1-1.6l2.6-0.1zM396.1 297.3l0.9 2.5l2.6 0.1l-2.1 1.6l0.7 2.5l-2.2-1.5l-2.2 1.5l0.7-2.5l-2.1-1.6l2.6-0.1zM419.7 289.7l0.9 2.5l2.6 0.1l-2.1 1.6l0.7 2.5l-2.2-1.5l-2.2 1.5l0.7-2.5l-2.1-1.6l2.6-0.1zM422.5 302.4l0.9 2.5l2.6 0.1l-2.1 1.6l0.7 2.5l-2.2-1.5l-2.2 1.5l0.7-2.5l-2.1-1.6l2.6-0.1zM437 304.9l0.9 2.5l2.6 0.1l-2.1 1.6l0.7 2.5l-2.2-1.5l-2.2 1.5l0.7-2.5l-2.1-1.6l2.6-0.1zM401.6 334.3l0.9 2.5l2.6 0.1l-2.1 1.6l0.7 2.5l-2.2-1.5l-2.2 1.5l0.7-2.5l-2.1-1.6l2.6-0.1zM409.4 321.2l0.9 2.5l2.6 0.1l-2.1 1.6l0.7 2.5l-2.2-1.5l-2.2 1.5l0.7-2.5l-2.1-1.6l2.6-0.1zM417.3 296.6l0.9 2.5l2.6 0.1l-2.1 1.6l0.7 2.5l-2.2-1.5l-2.2 1.5l0.7-2.5l-2.1-1.6l2.6-0.1zM418.4 297.3l0.9 2.5l2.6 0.1l-2.1 1.6l0.7 2.5l-2.2-1.5l-2.2 1.5l0.7-2.5l-2.1-1.6l2.6-0.1zM448.4 298.8l0.9 2.5l2.6 0.1l-2.1 1.6l0.7 2.5l-2.2-1.5l-2.2 1.5l0.7-2.5l-2.1-1.6l2.6-0.1zM440.6 322.1l0.9 2.5l2.6 0.1l-2.1 1.6l0.7 2.5l-2.2-1.5l-2.2 1.5l0.7-2.5l-2.1-1.6l2.6-0.1zM437.2 320.9l0.9 2.5l2.6 0.1l-2.1 1.6l0.7 2.5l-2.2-1.5l-2.2 1.5l0.7-2.5l-2.1-1.6l2.6-0.1zM418.4 291.1l0.9 2.5l2.6 0.1l-2.1 1.6l0.7 2.5l-2.2-1.5l-2.2 1.5l0.7-2.5l-2.1-1.6l2.6-0.1zM420.5 327.5l0.9 2.5l2.6 0.1l-2.1 1.6l0.7 2.5l-2.2-1.5l-2.2 1.5l0.7-2.5l-2.1-1.6l2.6-0.1zM426.1 304l0.9 2.5l2.6 0.1l-2.1 1.6l0.7 2.5l-2.2-1.5l-2.2 1.5l0.7-2.5l-2.1-1.6l2.6-0.1zM402.1 327.6l0.9 2.5l2.6 0.1l-2.1 1.6l0.7 2.5l-2.2-1.5l-2.2 1.5l0.7-2.5l-2.1-1.6l2.6-0.1zM444.9 340.3l0.9 2.5l2.6 0.1l-2.1 1.6l0.7 2.5l-2.2-1.5l-2.2 1.5l0.7-2.5l-2.1-1.6l2.6-0.1zM404.8 282.2l0.9 2.5l2.6 0.1l-2.1 1.6l0.7 2.5l-2.2-1.5l-2.2 1.5l0.7-2.5l-2.1-1.6l2.6-0.1zM431.5 300.4l0.9 2.5l2.6 0.1l-2.1 1.6l0.7 2.5l-2.2-1.5l-2.2 1.5l0.7-2.5l-2.1-1.6l2.6-0.1zM426.7 316.8l0.9 2.5l2.6 0.1l-2.1 1.6l0.7 2.5l-2.2-1.5l-2.2 1.5l0.7-2.5l-2.1-1.6l2.6-0.1zM422.5 338.9l0.9 2.5l2.6 0.1l-2.1 1.6l0.7 2.5l-2.2-1.5l-2.2 1.5l0.7-2.5l-2.1-1.6l2.6-0.1zM417 314.3l0.9 2.5l2.6 0.1l-2.1 1.6l0.7 2.5l-2.2-1.5l-2.2 1.5l0.7-2.5l-2.1-1.6l2.6-0.1zM447.4 299.1l0.9 2.5l2.6 0.1l-2.1 1.6l0.7 2.5l-2.2-1.5l-2.2 1.5l0.7-2.5l-2.1-1.6l2.6-0.1zM425.9 327.7l0.9 2.5l2.6 0.1l-2.1 1.6l0.7 2.5l-2.2-1.5l-2.2 1.5l0.7-2.5l-2.1-1.6l2.6-0.1zM419.5 311l0.9 2.5l2.6 0.1l-2.1 1.6l0.7 2.5l-2.2-1.5l-2.2 1.5l0.7-2.5l-2.1-1.6l2.6-0.1zM382.5 296.5l0.9 2.5l2.6 0.1l-2.1 1.6l0.7 2.5l-2.2-1.5l-2.2 1.5l0.7-2.5l-2.1-1.6l2.6-0.1zM429.9 322.7l0.9 2.5l2.6 0.1l-2.1 1.6l0.7 2.5l-2.2-1.5l-2.2 1.5l0.7-2.5l-2.1-1.6l2.6-0.1zM424.4 334.3l0.9 2.5l2.6 0.1l-2.1 1.6l0.7 2.5l-2.2-1.5l-2.2 1.5l0.7-2.5l-2.1-1.6l2.6-0.1zM404.9 341.9l0.9 2.5l2.6 0.1l-2.1 1.6l0.7 2.5l-2.2-1.5l-2.2 1.5l0.7-2.5l-2.1-1.6l2.6-0.1zM444.4 323l0.9 2.5l2.6 0.1l-2.1 1.6l0.7 2.5l-2.2-1.5l-2.2 1.5l0.7-2.5l-2.1-1.6l2.6-0.1zM422.1 317.6l0.9 2.5l2.6 0.1l-2.1 1.6l0.7 2.5l-2.2-1.5l-2.2 1.5l0.7-2.5l-2.1-1.6l2.6-0.1zM389.3 336.8l0.9 2.5l2.6 0.1l-2.1 1.6l0.7 2.5l-2.2-1.5l-2.2 1.5l0.7-2.5l-2.1-1.6l2.6-0.1zM421.3 284.8l0.9 2.5l2.6 0.1l-2.1 1.6l0.7 2.5l-2.2-1.5l-2.2 1.5l0.7-2.5l-2.1-1.6l2.6-0.1zM398.1 303.1l0.9 2.5l2.6 0.1l-2.1 1.6l0.7 2.5l-2.2-1.5l-2.2 1.5l0.7-2.5l-2.1-1.6l2.6-0.1zM435.2 321.1l0.9 2.5l2.6 0.1l-2.1 1.6l0.7 2.5l-2.2-1.5l-2.2 1.5l0.7-2.5l-2.1-1.6l2.6-0.1zM400.1 287.4l0.9 2.5l2.6 0.1l-2.1 1.6l0.7 2.5l-2.2-1.5l-2.2 1.5l0.7-2.5l-2.1-1.6l2.6-0.1zM432.5 336.3l0.9 2.5l2.6 0.1l-2.1 1.6l0.7 2.5l-2.2-1.5l-2.2 1.5l0.7-2.5l-2.1-1.6l2.6-0.1zM458 317.2l0.9 2.5l2.6 0.1l-2.1 1.6l0.7 2.5l-2.2-1.5l-2.2 1.5l0.7-2.5l-2.1-1.6l2.6-0.1zM442 297.1l0.9 2.5l2.6 0.1l-2.1 1.6l0.7 2.5l-2.2-1.5l-2.2 1.5l0.7-2.5l-2.1-1.6l2.6-0.1zM437.9 281.9l0.9 2.5l2.6 0.1l-2.1 1.6l0.7 2.5l-2.2-1.5l-2.2 1.5l0.7-2.5l-2.1-1.6l2.6-0.1zM455.8 305.9l0.9 2.5l2.6 0.1l-2.1 1.6l0.7 2.5l-2.2-1.5l-2.2 1.5l0.7-2.5l-2.1-1.6l2.6-0.1zM439.4 296.3l0.9 2.5l2.6 0.1l-2.1 1.6l0.7 2.5l-2.2-1.5l-2.2 1.5l0.7-2.5l-2.1-1.6l2.6-0.1zM417.6 316.2l0.9 2.5l2.6 0.1l-2.1 1.6l0.7 2.5l-2.2-1.5l-2.2 1.5l0.7-2.5l-2.1-1.6l2.6-0.1zM377 317.6l0.9 2.5l2.6 0.1l-2.1 1.6l0.7 2.5l-2.2-1.5l-2.2 1.5l0.7-2.5l-2.1-1.6l2.6-0.1zM462 316.6l0.9 2.5l2.6 0.1l-2.1 1.6l0.7 2.5l-2.2-1.5l-2.2 1.5l0.7-2.5l-2.1-1.6l2.6-0.1zM396.9 316l0.9 2.5l2.6 0.1l-2.1 1.6l0.7 2.5l-2.2-1.5l-2.2 1.5l0.7-2.5l-2.1-1.6l2.6-0.1zM443.5 281.7l0.9 2.5l2.6 0.1l-2.1 1.6l0.7 2.5l-2.2-1.5l-2.2 1.5l0.7-2.5l-2.1-1.6l2.6-0.1zM416.9 284.7l0.9 2.5l2.6 0.1l-2.1 1.6l0.7 2.5l-2.2-1.5l-2.2 1.5l0.7-2.5l-2.1-1.6l2.6-0.1zM426.2 291.7l0.9 2.5l2.6 0.1l-2.1 1.6l0.7 2.5l-2.2-1.5l-2.2 1.5l0.7-2.5l-2.1-1.6l2.6-0.1zM417.5 327.2l0.9 2.5l2.6 0.1l-2.1 1.6l0.7 2.5l-2.2-1.5l-2.2 1.5l0.7-2.5l-2.1-1.6l2.6-0.1zM437.4 310.1l0.9 2.5l2.6 0.1l-2.1 1.6l0.7 2.5l-2.2-1.5l-2.2 1.5l0.7-2.5l-2.1-1.6l2.6-0.1zM405.1 343.6l0.9 2.5l2.6 0.1l-2.1 1.6l0.7 2.5l-2.2-1.5l-2.2 1.5l0.7-2.5l-2.1-1.6l2.6-0.1zM431.4 295.4l0.9 2.5l2.6 0.1l-2.1 1.6l0.7 2.5l-2.2-1.5l-2.2 1.5l0.7-2.5l-2.1-1.6l2.6-0.1zM442.8 305.2l0.9 2.5l2.6 0.1l-2.1 1.6l0.7 2.5l-2.2-1.5l-2.2 1.5l0.7-2.5l-2.1-1.6l2.6-0.1zM439.6 321.8l0.9 2.5l2.6 0.1l-2.1 1.6l0.7 2.5l-2.2-1.5l-2.2 1.5l0.7-2.5l-2.1-1.6l2.6-0.1zM419.7 313l0.9 2.5l2.6 0.1l-2.1 1.6l0.7 2.5l-2.2-1.5l-2.2 1.5l0.7-2.5l-2.1-1.6l2.6-0.1zM389 284.6l0.9 2.5l2.6 0.1l-2.1 1.6l0.7 2.5l-2.2-1.5l-2.2 1.5l0.7-2.5l-2.1-1.6l2.6-0.1zM430.5 313.3l0.9 2.5l2.6 0.1l-2.1 1.6l0.7 2.5l-2.2-1.5l-2.2 1.5l0.7-2.5l-2.1-1.6l2.6-0.1zM407.2 292.4l0.9 2.5l2.6 0.1l-2.1 1.6l0.7 2.5l-2.2-1.5l-2.2 1.5l0.7-2.5l-2.1-1.6l2.6-0.1zM425.3 296.3l0.9 2.5l2.6 0.1l-2.1 1.6l0.7 2.5l-2.2-1.5l-2.2 1.5l0.7-2.5l-2.1-1.6l2.6-0.1zM433.2 300.8l0.9 2.5l2.6 0.1l-2.1 1.6l0.7 2.5l-2.2-1.5l-2.2 1.5l0.7-2.5l-2.1-1.6l2.6-0.1zM460.2 296l0.9 2.5l2.6 0.1l-2.1 1.6l0.7 2.5l-2.2-1.5l-2.2 1.5l0.7-2.5l-2.1-1.6l2.6-0.1zM441.1 306.1l0.9 2.5l2.6 0.1l-2.1 1.6l0.7 2.5l-2.2-1.5l-2.2 1.5l0.7-2.5l-2.1-1.6l2.6-0.1zM417.9 324l0.9 2.5l2.6 0.1l-2.1 1.6l0.7 2.5l-2.2-1.5l-2.2 1.5l0.7-2.5l-2.1-1.6l2.6-0.1zM441.3 300.8l0.9 2.5l2.6 0.1l-2.1 1.6l0.7 2.5l-2.2-1.5l-2.2 1.5l0.7-2.5l-2.1-1.6l2.6-0.1zM427.1 305.7l0.9 2.5l2.6 0.1l-2.1 1.6l0.7 2.5l-2.2-1.5l-2.2 1.5l0.7-2.5l-2.1-1.6l2.6-0.1zM450.5 299.6l0.9 2.5l2.6 0.1l-2.1 1.6l0.7 2.5l-2.2-1.5l-2.2 1.5l0.7-2.5l-2.1-1.6l2.6-0.1zM442.1 296.3l0.9 2.5l2.6 0.1l-2.1 1.6l0.7 2.5l-2.2-1.5l-2.2 1.5l0.7-2.5l-2.1-1.6l2.6-0.1zM404.2 330.6l0.9 2.5l2.6 0.1l-2.1 1.6l0.7 2.5l-2.2-1.5l-2.2 1.5l0.7-2.5l-2.1-1.6l2.6-0.1zM421 320l0.9 2.5l2.6 0.1l-2.1 1.6l0.7 2.5l-2.2-1.5l-2.2 1.5l0.7-2.5l-2.1-1.6l2.6-0.1zM439.9 290.1l0.9 2.5l2.6 0.1l-2.1 1.6l0.7 2.5l-2.2-1.5l-2.2 1.5l0.7-2.5l-2.1-1.6l2.6-0.1zM436.8 333.1l0.9 2.5l2.6 0.1l-2.1 1.6l0.7 2.5l-2.2-1.5l-2.2 1.5l0.7-2.5l-2.1-1.6l2.6-0.1zM453 286.9l0.9 2.5l2.6 0.1l-2.1 1.6l0.7 2.5l-2.2-1.5l-2.2 1.5l0.7-2.5l-2.1-1.6l2.6-0.1zM384 334.6l0.9 2.5l2.6 0.1l-2.1 1.6l0.7 2.5l-2.2-1.5l-2.2 1.5l0.7-2.5l-2.1-1.6l2.6-0.1zM418.7 299.5l0.9 2.5l2.6 0.1l-2.1 1.6l0.7 2.5l-2.2-1.5l-2.2 1.5l0.7-2.5l-2.1-1.6l2.6-0.1zM403 298.7l0.9 2.5l2.6 0.1l-2.1 1.6l0.7 2.5l-2.2-1.5l-2.2 1.5l0.7-2.5l-2.1-1.6l2.6-0.1zM443.9 311.2l0.9 2.5l2.6 0.1l-2.1 1.6l0.7 2.5l-2.2-1.5l-2.2 1.5l0.7-2.5l-2.1-1.6l2.6-0.1zM399.4 299.6l0.9 2.5l2.6 0.1l-2.1 1.6l0.7 2.5l-2.2-1.5l-2.2 1.5l0.7-2.5l-2.1-1.6l2.6-0.1zM414.2 301.9l0.9 2.5l2.6 0.1l-2.1 1.6l0.7 2.5l-2.2-1.5l-2.2 1.5l0.7-2.5l-2.1-1.6l2.6-0.1zM425.1 311.1l0.9 2.5l2.6 0.1l-2.1 1.6l0.7 2.5l-2.2-1.5l-2.2 1.5l0.7-2.5l-2.1-1.6l2.6-0.1zM438.2 337.5l0.9 2.5l2.6 0.1l-2.1 1.6l0.7 2.5l-2.2-1.5l-2.2 1.5l0.7-2.5l-2.1-1.6l2.6-0.1zM378.6 298.4l0.9 2.5l2.6 0.1l-2.1 1.6l0.7 2.5l-2.2-1.5l-2.2 1.5l0.7-2.5l-2.1-1.6l2.6-0.1zM448.3 305.6l0.9 2.5l2.6 0.1l-2.1 1.6l0.7 2.5l-2.2-1.5l-2.2 1.5l0.7-2.5l-2.1-1.6l2.6-0.1zM421.2 335.9l0.9 2.5l2.6 0.1l-2.1 1.6l0.7 2.5l-2.2-1.5l-2.2 1.5l0.7-2.5l-2.1-1.6l2.6-0.1zM438.6 287.6l0.9 2.5l2.6 0.1l-2.1 1.6l0.7 2.5l-2.2-1.5l-2.2 1.5l0.7-2.5l-2.1-1.6l2.6-0.1zM417.4 341.9l0.9 2.5l2.6 0.1l-2.1 1.6l0.7 2.5l-2.2-1.5l-2.2 1.5l0.7-2.5l-2.1-1.6l2.6-0.1zM396.7 313.1l0.9 2.5l2.6 0.1l-2.1 1.6l0.7 2.5l-2.2-1.5l-2.2 1.5l0.7-2.5l-2.1-1.6l2.6-0.1zM431.6 323.7l0.9 2.5l2.6 0.1l-2.1 1.6l0.7 2.5l-2.2-1.5l-2.2 1.5l0.7-2.5l-2.1-1.6l2.6-0.1zM461.2 296.3l0.9 2.5l2.6 0.1l-2.1 1.6l0.7 2.5l-2.2-1.5l-2.2 1.5l0.7-2.5l-2.1-1.6l2.6-0.1zM406.9 309.3l0.9 2.5l2.6 0.1l-2.1 1.6l0.7 2.5l-2.2-1.5l-2.2 1.5l0.7-2.5l-2.1-1.6l2.6-0.1zM434.9 310.3l0.9 2.5l2.6 0.1l-2.1 1.6l0.7 2.5l-2.2-1.5l-2.2 1.5l0.7-2.5l-2.1-1.6l2.6-0.1zM429.1 304.8l0.9 2.5l2.6 0.1l-2.1 1.6l0.7 2.5l-2.2-1.5l-2.2 1.5l0.7-2.5l-2.1-1.6l2.6-0.1zM413.1 282.9l0.9 2.5l2.6 0.1l-2.1 1.6l0.7 2.5l-2.2-1.5l-2.2 1.5l0.7-2.5l-2.1-1.6l2.6-0.1zM394.8 323.6l0.9 2.5l2.6 0.1l-2.1 1.6l0.7 2.5l-2.2-1.5l-2.2 1.5l0.7-2.5l-2.1-1.6l2.6-0.1zM420.2 324.4l0.9 2.5l2.6 0.1l-2.1 1.6l0.7 2.5l-2.2-1.5l-2.2 1.5l0.7-2.5l-2.1-1.6l2.6-0.1zM444.1 293.6l0.9 2.5l2.6 0.1l-2.1 1.6l0.7 2.5l-2.2-1.5l-2.2 1.5l0.7-2.5l-2.1-1.6l2.6-0.1zM423 321.2l0.9 2.5l2.6 0.1l-2.1 1.6l0.7 2.5l-2.2-1.5l-2.2 1.5l0.7-2.5l-2.1-1.6l2.6-0.1zM426.2 326.2l0.9 2.5l2.6 0.1l-2.1 1.6l0.7 2.5l-2.2-1.5l-2.2 1.5l0.7-2.5l-2.1-1.6l2.6-0.1zM415.2 316.6l0.9 2.5l2.6 0.1l-2.1 1.6l0.7 2.5l-2.2-1.5l-2.2 1.5l0.7-2.5l-2.1-1.6l2.6-0.1zM423.1 296.8l0.9 2.5l2.6 0.1l-2.1 1.6l0.7 2.5l-2.2-1.5l-2.2 1.5l0.7-2.5l-2.1-1.6l2.6-0.1zM420.9 281l0.9 2.5l2.6 0.1l-2.1 1.6l0.7 2.5l-2.2-1.5l-2.2 1.5l0.7-2.5l-2.1-1.6l2.6-0.1zM396.9 278.2l0.9 2.5l2.6 0.1l-2.1 1.6l0.7 2.5l-2.2-1.5l-2.2 1.5l0.7-2.5l-2.1-1.6l2.6-0.1zM462 287l0.9 2.5l2.6 0.1l-2.1 1.6l0.7 2.5l-2.2-1.5l-2.2 1.5l0.7-2.5l-2.1-1.6l2.6-0.1zM408.8 325.1l0.9 2.5l2.6 0.1l-2.1 1.6l0.7 2.5l-2.2-1.5l-2.2 1.5l0.7-2.5l-2.1-1.6l2.6-0.1zM449.8 284l0.9 2.5l2.6 0.1l-2.1 1.6l0.7 2.5l-2.2-1.5l-2.2 1.5l0.7-2.5l-2.1-1.6l2.6-0.1zM464.5 331.6l0.9 2.5l2.6 0.1l-2.1 1.6l0.7 2.5l-2.2-1.5l-2.2 1.5l0.7-2.5l-2.1-1.6l2.6-0.1zM424.7 286l0.9 2.5l2.6 0.1l-2.1 1.6l0.7 2.5l-2.2-1.5l-2.2 1.5l0.7-2.5l-2.1-1.6l2.6-0.1zM424.5 293.6l0.9 2.5l2.6 0.1l-2.1 1.6l0.7 2.5l-2.2-1.5l-2.2 1.5l0.7-2.5l-2.1-1.6l2.6-0.1zM397 300.3l0.9 2.5l2.6 0.1l-2.1 1.6l0.7 2.5l-2.2-1.5l-2.2 1.5l0.7-2.5l-2.1-1.6l2.6-0.1zM440.1 318.5l0.9 2.5l2.6 0.1l-2.1 1.6l0.7 2.5l-2.2-1.5l-2.2 1.5l0.7-2.5l-2.1-1.6l2.6-0.1zM413.8 301.9l0.9 2.5l2.6 0.1l-2.1 1.6l0.7 2.5l-2.2-1.5l-2.2 1.5l0.7-2.5l-2.1-1.6l2.6-0.1zM406.5 338l0.9 2.5l2.6 0.1l-2.1 1.6l0.7 2.5l-2.2-1.5l-2.2 1.5l0.7-2.5l-2.1-1.6l2.6-0.1zM452.5 291.7l0.9 2.5l2.6 0.1l-2.1 1.6l0.7 2.5l-2.2-1.5l-2.2 1.5l0.7-2.5l-2.1-1.6l2.6-0.1zM458.3 330.6l0.9 2.5l2.6 0.1l-2.1 1.6l0.7 2.5l-2.2-1.5l-2.2 1.5l0.7-2.5l-2.1-1.6l2.6-0.1zM430 284.8l0.9 2.5l2.6 0.1l-2.1 1.6l0.7 2.5l-2.2-1.5l-2.2 1.5l0.7-2.5l-2.1-1.6l2.6-0.1zM421.9 320.8l0.9 2.5l2.6 0.1l-2.1 1.6l0.7 2.5l-2.2-1.5l-2.2 1.5l0.7-2.5l-2.1-1.6l2.6-0.1zM398.4 329.6l0.9 2.5l2.6 0.1l-2.1 1.6l0.7 2.5l-2.2-1.5l-2.2 1.5l0.7-2.5l-2.1-1.6l2.6-0.1zM399.9 291.2l0.9 2.5l2.6 0.1l-2.1 1.6l0.7 2.5l-2.2-1.5l-2.2 1.5l0.7-2.5l-2.1-1.6l2.6-0.1zM395.8 303.3l0.9 2.5l2.6 0.1l-2.1 1.6l0.7 2.5l-2.2-1.5l-2.2 1.5l0.7-2.5l-2.1-1.6l2.6-0.1zM408.2 297.5l0.9 2.5l2.6 0.1l-2.1 1.6l0.7 2.5l-2.2-1.5l-2.2 1.5l0.7-2.5l-2.1-1.6l2.6-0.1zM447.8 307.6l0.9 2.5l2.6 0.1l-2.1 1.6l0.7 2.5l-2.2-1.5l-2.2 1.5l0.7-2.5l-2.1-1.6l2.6-0.1zM418.7 324.5l0.9 2.5l2.6 0.1l-2.1 1.6l0.7 2.5l-2.2-1.5l-2.2 1.5l0.7-2.5l-2.1-1.6l2.6-0.1zM436.8 300.5l0.9 2.5l2.6 0.1l-2.1 1.6l0.7 2.5l-2.2-1.5l-2.2 1.5l0.7-2.5l-2.1-1.6l2.6-0.1zM429.6 286.9l0.9 2.5l2.6 0.1l-2.1 1.6l0.7 2.5l-2.2-1.5l-2.2 1.5l0.7-2.5l-2.1-1.6l2.6-0.1zM385.5 286.4l0.9 2.5l2.6 0.1l-2.1 1.6l0.7 2.5l-2.2-1.5l-2.2 1.5l0.7-2.5l-2.1-1.6l2.6-0.1zM413.9 327.9l0.9 2.5l2.6 0.1l-2.1 1.6l0.7 2.5l-2.2-1.5l-2.2 1.5l0.7-2.5l-2.1-1.6l2.6-0.1zM434.4 285.4l0.9 2.5l2.6 0.1l-2.1 1.6l0.7 2.5l-2.2-1.5l-2.2 1.5l0.7-2.5l-2.1-1.6l2.6-0.1zM414.1 321.9l0.9 2.5l2.6 0.1l-2.1 1.6l0.7 2.5l-2.2-1.5l-2.2 1.5l0.7-2.5l-2.1-1.6l2.6-0.1zM422 288.9l0.9 2.5l2.6 0.1l-2.1 1.6l0.7 2.5l-2.2-1.5l-2.2 1.5l0.7-2.5l-2.1-1.6l2.6-0.1zM454.4 327.8l0.9 2.5l2.6 0.1l-2.1 1.6l0.7 2.5l-2.2-1.5l-2.2 1.5l0.7-2.5l-2.1-1.6l2.6-0.1zM424.5 316l0.9 2.5l2.6 0.1l-2.1 1.6l0.7 2.5l-2.2-1.5l-2.2 1.5l0.7-2.5l-2.1-1.6l2.6-0.1zM389 320.1l0.9 2.5l2.6 0.1l-2.1 1.6l0.7 2.5l-2.2-1.5l-2.2 1.5l0.7-2.5l-2.1-1.6l2.6-0.1zM402.5 322.4l0.9 2.5l2.6 0.1l-2.1 1.6l0.7 2.5l-2.2-1.5l-2.2 1.5l0.7-2.5l-2.1-1.6l2.6-0.1zM430.2 291.9l0.9 2.5l2.6 0.1l-2.1 1.6l0.7 2.5l-2.2-1.5l-2.2 1.5l0.7-2.5l-2.1-1.6l2.6-0.1zM431.9 309.1l0.9 2.5l2.6 0.1l-2.1 1.6l0.7 2.5l-2.2-1.5l-2.2 1.5l0.7-2.5l-2.1-1.6l2.6-0.1zM444.6 339.6l0.9 2.5l2.6 0.1l-2.1 1.6l0.7 2.5l-2.2-1.5l-2.2 1.5l0.7-2.5l-2.1-1.6l2.6-0.1zM444.4 337.3l0.9 2.5l2.6 0.1l-2.1 1.6l0.7 2.5l-2.2-1.5l-2.2 1.5l0.7-2.5l-2.1-1.6l2.6-0.1zM415 341.8l0.9 2.5l2.6 0.1l-2.1 1.6l0.7 2.5l-2.2-1.5l-2.2 1.5l0.7-2.5l-2.1-1.6l2.6-0.1zM429.6 284.8l0.9 2.5l2.6 0.1l-2.1 1.6l0.7 2.5l-2.2-1.5l-2.2 1.5l0.7-2.5l-2.1-1.6l2.6-0.1zM426.1 334l0.9 2.5l2.6 0.1l-2.1 1.6l0.7 2.5l-2.2-1.5l-2.2 1.5l0.7-2.5l-2.1-1.6l2.6-0.1zM400.3 319.7l0.9 2.5l2.6 0.1l-2.1 1.6l0.7 2.5l-2.2-1.5l-2.2 1.5l0.7-2.5l-2.1-1.6l2.6-0.1zM448.2 339.6l0.9 2.5l2.6 0.1l-2.1 1.6l0.7 2.5l-2.2-1.5l-2.2 1.5l0.7-2.5l-2.1-1.6l2.6-0.1zM461.5 297.9l0.9 2.5l2.6 0.1l-2.1 1.6l0.7 2.5l-2.2-1.5l-2.2 1.5l0.7-2.5l-2.1-1.6l2.6-0.1zM454.5 310.2l0.9 2.5l2.6 0.1l-2.1 1.6l0.7 2.5l-2.2-1.5l-2.2 1.5l0.7-2.5l-2.1-1.6l2.6-0.1zM439.6 324l0.9 2.5l2.6 0.1l-2.1 1.6l0.7 2.5l-2.2-1.5l-2.2 1.5l0.7-2.5l-2.1-1.6l2.6-0.1zM415.1 326.5l0.9 2.5l2.6 0.1l-2.1 1.6l0.7 2.5l-2.2-1.5l-2.2 1.5l0.7-2.5l-2.1-1.6l2.6-0.1zM400.6 338.9l0.9 2.5l2.6 0.1l-2.1 1.6l0.7 2.5l-2.2-1.5l-2.2 1.5l0.7-2.5l-2.1-1.6l2.6-0.1zM454.3 305.3l0.9 2.5l2.6 0.1l-2.1 1.6l0.7 2.5l-2.2-1.5l-2.2 1.5l0.7-2.5l-2.1-1.6l2.6-0.1zM412.4 289.3l0.9 2.5l2.6 0.1l-2.1 1.6l0.7 2.5l-2.2-1.5l-2.2 1.5l0.7-2.5l-2.1-1.6l2.6-0.1zM439.1 325.8l0.9 2.5l2.6 0.1l-2.1 1.6l0.7 2.5l-2.2-1.5l-2.2 1.5l0.7-2.5l-2.1-1.6l2.6-0.1zM384.9 341.9l0.9 2.5l2.6 0.1l-2.1 1.6l0.7 2.5l-2.2-1.5l-2.2 1.5l0.7-2.5l-2.1-1.6l2.6-0.1zM395.3 294.3l0.9 2.5l2.6 0.1l-2.1 1.6l0.7 2.5l-2.2-1.5l-2.2 1.5l0.7-2.5l-2.1-1.6l2.6-0.1zM406.5 299.6l0.9 2.5l2.6 0.1l-2.1 1.6l0.7 2.5l-2.2-1.5l-2.2 1.5l0.7-2.5l-2.1-1.6l2.6-0.1zM436.6 283.4l0.9 2.5l2.6 0.1l-2.1 1.6l0.7 2.5l-2.2-1.5l-2.2 1.5l0.7-2.5l-2.1-1.6l2.6-0.1zM380.6 318.5l0.9 2.5l2.6 0.1l-2.1 1.6l0.7 2.5l-2.2-1.5l-2.2 1.5l0.7-2.5l-2.1-1.6l2.6-0.1zM437.8 294l0.9 2.5l2.6 0.1l-2.1 1.6l0.7 2.5l-2.2-1.5l-2.2 1.5l0.7-2.5l-2.1-1.6l2.6-0.1zM415.6 319.6l0.9 2.5l2.6 0.1l-2.1 1.6l0.7 2.5l-2.2-1.5l-2.2 1.5l0.7-2.5l-2.1-1.6l2.6-0.1zM398.9 309.5l0.9 2.5l2.6 0.1l-2.1 1.6l0.7 2.5l-2.2-1.5l-2.2 1.5l0.7-2.5l-2.1-1.6l2.6-0.1zM405.3 313.9l0.9 2.5l2.6 0.1l-2.1 1.6l0.7 2.5l-2.2-1.5l-2.2 1.5l0.7-2.5l-2.1-1.6l2.6-0.1zM417.5 321.5l0.9 2.5l2.6 0.1l-2.1 1.6l0.7 2.5l-2.2-1.5l-2.2 1.5l0.7-2.5l-2.1-1.6l2.6-0.1zM454.3 312.1l0.9 2.5l2.6 0.1l-2.1 1.6l0.7 2.5l-2.2-1.5l-2.2 1.5l0.7-2.5l-2.1-1.6l2.6-0.1zM421.3 292.5l0.9 2.5l2.6 0.1l-2.1 1.6l0.7 2.5l-2.2-1.5l-2.2 1.5l0.7-2.5l-2.1-1.6l2.6-0.1zM434.2 314.8l0.9 2.5l2.6 0.1l-2.1 1.6l0.7 2.5l-2.2-1.5l-2.2 1.5l0.7-2.5l-2.1-1.6l2.6-0.1zM443.7 315.5l0.9 2.5l2.6 0.1l-2.1 1.6l0.7 2.5l-2.2-1.5l-2.2 1.5l0.7-2.5l-2.1-1.6l2.6-0.1zM395.9 326.1l0.9 2.5l2.6 0.1l-2.1 1.6l0.7 2.5l-2.2-1.5l-2.2 1.5l0.7-2.5l-2.1-1.6l2.6-0.1zM442 278.7l0.9 2.5l2.6 0.1l-2.1 1.6l0.7 2.5l-2.2-1.5l-2.2 1.5l0.7-2.5l-2.1-1.6l2.6-0.1zM404.9 307l0.9 2.5l2.6 0.1l-2.1 1.6l0.7 2.5l-2.2-1.5l-2.2 1.5l0.7-2.5l-2.1-1.6l2.6-0.1zM440.1 324.5l0.9 2.5l2.6 0.1l-2.1 1.6l0.7 2.5l-2.2-1.5l-2.2 1.5l0.7-2.5l-2.1-1.6l2.6-0.1zM419.6 317.1l0.9 2.5l2.6 0.1l-2.1 1.6l0.7 2.5l-2.2-1.5l-2.2 1.5l0.7-2.5l-2.1-1.6l2.6-0.1zM412 313.5l0.9 2.5l2.6 0.1l-2.1 1.6l0.7 2.5l-2.2-1.5l-2.2 1.5l0.7-2.5l-2.1-1.6l2.6-0.1zM454.3 310.9l0.9 2.5l2.6 0.1l-2.1 1.6l0.7 2.5l-2.2-1.5l-2.2 1.5l0.7-2.5l-2.1-1.6l2.6-0.1zM410.5 284.9l0.9 2.5l2.6 0.1l-2.1 1.6l0.7 2.5l-2.2-1.5l-2.2 1.5l0.7-2.5l-2.1-1.6l2.6-0.1zM402.7 317.8l0.9 2.5l2.6 0.1l-2.1 1.6l0.7 2.5l-2.2-1.5l-2.2 1.5l0.7-2.5l-2.1-1.6l2.6-0.1zM411.3 292.8l0.9 2.5l2.6 0.1l-2.1 1.6l0.7 2.5l-2.2-1.5l-2.2 1.5l0.7-2.5l-2.1-1.6l2.6-0.1zM385.4 302.2l0.9 2.5l2.6 0.1l-2.1 1.6l0.7 2.5l-2.2-1.5l-2.2 1.5l0.7-2.5l-2.1-1.6l2.6-0.1zM403.1 317.9l0.9 2.5l2.6 0.1l-2.1 1.6l0.7 2.5l-2.2-1.5l-2.2 1.5l0.7-2.5l-2.1-1.6l2.6-0.1zM405 349.3l0.9 2.5l2.6 0.1l-2.1 1.6l0.7 2.5l-2.2-1.5l-2.2 1.5l0.7-2.5l-2.1-1.6l2.6-0.1zM448.9 299.4l0.9 2.5l2.6 0.1l-2.1 1.6l0.7 2.5l-2.2-1.5l-2.2 1.5l0.7-2.5l-2.1-1.6l2.6-0.1zM410.7 353l0.9 2.5l2.6 0.1l-2.1 1.6l0.7 2.5l-2.2-1.5l-2.2 1.5l0.7-2.5l-2.1-1.6l2.6-0.1zM414.4 293l0.9 2.5l2.6 0.1l-2.1 1.6l0.7 2.5l-2.2-1.5l-2.2 1.5l0.7-2.5l-2.1-1.6l2.6-0.1zM434.7 305.6l0.9 2.5l2.6 0.1l-2.1 1.6l0.7 2.5l-2.2-1.5l-2.2 1.5l0.7-2.5l-2.1-1.6l2.6-0.1zM424.3 330.9l0.9 2.5l2.6 0.1l-2.1 1.6l0.7 2.5l-2.2-1.5l-2.2 1.5l0.7-2.5l-2.1-1.6l2.6-0.1zM404.6 282.9l0.9 2.5l2.6 0.1l-2.1 1.6l0.7 2.5l-2.2-1.5l-2.2 1.5l0.7-2.5l-2.1-1.6l2.6-0.1zM376.6 318.7l0.9 2.5l2.6 0.1l-2.1 1.6l0.7 2.5l-2.2-1.5l-2.2 1.5l0.7-2.5l-2.1-1.6l2.6-0.1zM442.5 291.4l0.9 2.5l2.6 0.1l-2.1 1.6l0.7 2.5l-2.2-1.5l-2.2 1.5l0.7-2.5l-2.1-1.6l2.6-0.1zM432.6 292l0.9 2.5l2.6 0.1l-2.1 1.6l0.7 2.5l-2.2-1.5l-2.2 1.5l0.7-2.5l-2.1-1.6l2.6-0.1zM451.4 287.3l0.9 2.5l2.6 0.1l-2.1 1.6l0.7 2.5l-2.2-1.5l-2.2 1.5l0.7-2.5l-2.1-1.6l2.6-0.1zM442.3 302.3l0.9 2.5l2.6 0.1l-2.1 1.6l0.7 2.5l-2.2-1.5l-2.2 1.5l0.7-2.5l-2.1-1.6l2.6-0.1zM415.3 302.3l0.9 2.5l2.6 0.1l-2.1 1.6l0.7 2.5l-2.2-1.5l-2.2 1.5l0.7-2.5l-2.1-1.6l2.6-0.1zM411.4 288.5l0.9 2.5l2.6 0.1l-2.1 1.6l0.7 2.5l-2.2-1.5l-2.2 1.5l0.7-2.5l-2.1-1.6l2.6-0.1zM449.3 291.1l0.9 2.5l2.6 0.1l-2.1 1.6l0.7 2.5l-2.2-1.5l-2.2 1.5l0.7-2.5l-2.1-1.6l2.6-0.1zM426.6 325.2l0.9 2.5l2.6 0.1l-2.1 1.6l0.7 2.5l-2.2-1.5l-2.2 1.5l0.7-2.5l-2.1-1.6l2.6-0.1zM436 296.6l0.9 2.5l2.6 0.1l-2.1 1.6l0.7 2.5l-2.2-1.5l-2.2 1.5l0.7-2.5l-2.1-1.6l2.6-0.1zM384.6 315.8l0.9 2.5l2.6 0.1l-2.1 1.6l0.7 2.5l-2.2-1.5l-2.2 1.5l0.7-2.5l-2.1-1.6l2.6-0.1zM438.6 312.2l0.9 2.5l2.6 0.1l-2.1 1.6l0.7 2.5l-2.2-1.5l-2.2 1.5l0.7-2.5l-2.1-1.6l2.6-0.1zM422.4 300.7l0.9 2.5l2.6 0.1l-2.1 1.6l0.7 2.5l-2.2-1.5l-2.2 1.5l0.7-2.5l-2.1-1.6l2.6-0.1zM391.8 297.2l0.9 2.5l2.6 0.1l-2.1 1.6l0.7 2.5l-2.2-1.5l-2.2 1.5l0.7-2.5l-2.1-1.6l2.6-0.1zM383.2 293.7l0.9 2.5l2.6 0.1l-2.1 1.6l0.7 2.5l-2.2-1.5l-2.2 1.5l0.7-2.5l-2.1-1.6l2.6-0.1zM440.4 293.7l0.9 2.5l2.6 0.1l-2.1 1.6l0.7 2.5l-2.2-1.5l-2.2 1.5l0.7-2.5l-2.1-1.6l2.6-0.1zM433.8 303.7l0.9 2.5l2.6 0.1l-2.1 1.6l0.7 2.5l-2.2-1.5l-2.2 1.5l0.7-2.5l-2.1-1.6l2.6-0.1zM462.9 307.4l0.9 2.5l2.6 0.1l-2.1 1.6l0.7 2.5l-2.2-1.5l-2.2 1.5l0.7-2.5l-2.1-1.6l2.6-0.1zM441.2 303.7l0.9 2.5l2.6 0.1l-2.1 1.6l0.7 2.5l-2.2-1.5l-2.2 1.5l0.7-2.5l-2.1-1.6l2.6-0.1zM447.8 294.8l0.9 2.5l2.6 0.1l-2.1 1.6l0.7 2.5l-2.2-1.5l-2.2 1.5l0.7-2.5l-2.1-1.6l2.6-0.1zM409 282.6l0.9 2.5l2.6 0.1l-2.1 1.6l0.7 2.5l-2.2-1.5l-2.2 1.5l0.7-2.5l-2.1-1.6l2.6-0.1zM414.7 311.5l0.9 2.5l2.6 0.1l-2.1 1.6l0.7 2.5l-2.2-1.5l-2.2 1.5l0.7-2.5l-2.1-1.6l2.6-0.1zM469.2 306.9l0.9 2.5l2.6 0.1l-2.1 1.6l0.7 2.5l-2.2-1.5l-2.2 1.5l0.7-2.5l-2.1-1.6l2.6-0.1zM438.8 305.8l0.9 2.5l2.6 0.1l-2.1 1.6l0.7 2.5l-2.2-1.5l-2.2 1.5l0.7-2.5l-2.1-1.6l2.6-0.1zM413.6 304l0.9 2.5l2.6 0.1l-2.1 1.6l0.7 2.5l-2.2-1.5l-2.2 1.5l0.7-2.5l-2.1-1.6l2.6-0.1zM447 301.7l0.9 2.5l2.6 0.1l-2.1 1.6l0.7 2.5l-2.2-1.5l-2.2 1.5l0.7-2.5l-2.1-1.6l2.6-0.1zM385.3 285.5l0.9 2.5l2.6 0.1l-2.1 1.6l0.7 2.5l-2.2-1.5l-2.2 1.5l0.7-2.5l-2.1-1.6l2.6-0.1zM436.3 318.4l0.9 2.5l2.6 0.1l-2.1 1.6l0.7 2.5l-2.2-1.5l-2.2 1.5l0.7-2.5l-2.1-1.6l2.6-0.1zM456.1 315.4l0.9 2.5l2.6 0.1l-2.1 1.6l0.7 2.5l-2.2-1.5l-2.2 1.5l0.7-2.5l-2.1-1.6l2.6-0.1zM408.1 289.8l0.9 2.5l2.6 0.1l-2.1 1.6l0.7 2.5l-2.2-1.5l-2.2 1.5l0.7-2.5l-2.1-1.6l2.6-0.1zM431.6 314.5l0.9 2.5l2.6 0.1l-2.1 1.6l0.7 2.5l-2.2-1.5l-2.2 1.5l0.7-2.5l-2.1-1.6l2.6-0.1zM390.5 332.1l0.9 2.5l2.6 0.1l-2.1 1.6l0.7 2.5l-2.2-1.5l-2.2 1.5l0.7-2.5l-2.1-1.6l2.6-0.1zM427.2 292.1l0.9 2.5l2.6 0.1l-2.1 1.6l0.7 2.5l-2.2-1.5l-2.2 1.5l0.7-2.5l-2.1-1.6l2.6-0.1zM406.7 302.6l0.9 2.5l2.6 0.1l-2.1 1.6l0.7 2.5l-2.2-1.5l-2.2 1.5l0.7-2.5l-2.1-1.6l2.6-0.1zM413.7 300l0.9 2.5l2.6 0.1l-2.1 1.6l0.7 2.5l-2.2-1.5l-2.2 1.5l0.7-2.5l-2.1-1.6l2.6-0.1zM438 295.6l0.9 2.5l2.6 0.1l-2.1 1.6l0.7 2.5l-2.2-1.5l-2.2 1.5l0.7-2.5l-2.1-1.6l2.6-0.1zM419.9 327.1l0.9 2.5l2.6 0.1l-2.1 1.6l0.7 2.5l-2.2-1.5l-2.2 1.5l0.7-2.5l-2.1-1.6l2.6-0.1zM439.1 305l0.9 2.5l2.6 0.1l-2.1 1.6l0.7 2.5l-2.2-1.5l-2.2 1.5l0.7-2.5l-2.1-1.6l2.6-0.1zM417.5 274.4l0.9 2.5l2.6 0.1l-2.1 1.6l0.7 2.5l-2.2-1.5l-2.2 1.5l0.7-2.5l-2.1-1.6l2.6-0.1zM439.4 281.3l0.9 2.5l2.6 0.1l-2.1 1.6l0.7 2.5l-2.2-1.5l-2.2 1.5l0.7-2.5l-2.1-1.6l2.6-0.1zM450.6 302.5l0.9 2.5l2.6 0.1l-2.1 1.6l0.7 2.5l-2.2-1.5l-2.2 1.5l0.7-2.5l-2.1-1.6l2.6-0.1zM409.7 292.4l0.9 2.5l2.6 0.1l-2.1 1.6l0.7 2.5l-2.2-1.5l-2.2 1.5l0.7-2.5l-2.1-1.6l2.6-0.1zM419.9 320l0.9 2.5l2.6 0.1l-2.1 1.6l0.7 2.5l-2.2-1.5l-2.2 1.5l0.7-2.5l-2.1-1.6l2.6-0.1zM423.3 304.8l0.9 2.5l2.6 0.1l-2.1 1.6l0.7 2.5l-2.2-1.5l-2.2 1.5l0.7-2.5l-2.1-1.6l2.6-0.1zM442.1 335.6l0.9 2.5l2.6 0.1l-2.1 1.6l0.7 2.5l-2.2-1.5l-2.2 1.5l0.7-2.5l-2.1-1.6l2.6-0.1zM415 331.1l0.9 2.5l2.6 0.1l-2.1 1.6l0.7 2.5l-2.2-1.5l-2.2 1.5l0.7-2.5l-2.1-1.6l2.6-0.1zM424.8 297.4l0.9 2.5l2.6 0.1l-2.1 1.6l0.7 2.5l-2.2-1.5l-2.2 1.5l0.7-2.5l-2.1-1.6l2.6-0.1zM405.1 281.9l0.9 2.5l2.6 0.1l-2.1 1.6l0.7 2.5l-2.2-1.5l-2.2 1.5l0.7-2.5l-2.1-1.6l2.6-0.1zM416.6 302.5l0.9 2.5l2.6 0.1l-2.1 1.6l0.7 2.5l-2.2-1.5l-2.2 1.5l0.7-2.5l-2.1-1.6l2.6-0.1zM393.1 281.6l0.9 2.5l2.6 0.1l-2.1 1.6l0.7 2.5l-2.2-1.5l-2.2 1.5l0.7-2.5l-2.1-1.6l2.6-0.1zM408.4 291.8l0.9 2.5l2.6 0.1l-2.1 1.6l0.7 2.5l-2.2-1.5l-2.2 1.5l0.7-2.5l-2.1-1.6l2.6-0.1zM410.1 314.2l0.9 2.5l2.6 0.1l-2.1 1.6l0.7 2.5l-2.2-1.5l-2.2 1.5l0.7-2.5l-2.1-1.6l2.6-0.1zM424.1 304.9l0.9 2.5l2.6 0.1l-2.1 1.6l0.7 2.5l-2.2-1.5l-2.2 1.5l0.7-2.5l-2.1-1.6l2.6-0.1zM415.1 318.8l0.9 2.5l2.6 0.1l-2.1 1.6l0.7 2.5l-2.2-1.5l-2.2 1.5l0.7-2.5l-2.1-1.6l2.6-0.1zM398 313.7l0.9 2.5l2.6 0.1l-2.1 1.6l0.7 2.5l-2.2-1.5l-2.2 1.5l0.7-2.5l-2.1-1.6l2.6-0.1zM399.8 306.2l0.9 2.5l2.6 0.1l-2.1 1.6l0.7 2.5l-2.2-1.5l-2.2 1.5l0.7-2.5l-2.1-1.6l2.6-0.1zM457.1 305.1l0.9 2.5l2.6 0.1l-2.1 1.6l0.7 2.5l-2.2-1.5l-2.2 1.5l0.7-2.5l-2.1-1.6l2.6-0.1zM416.5 307.9l0.9 2.5l2.6 0.1l-2.1 1.6l0.7 2.5l-2.2-1.5l-2.2 1.5l0.7-2.5l-2.1-1.6l2.6-0.1zM431.8 341.7l0.9 2.5l2.6 0.1l-2.1 1.6l0.7 2.5l-2.2-1.5l-2.2 1.5l0.7-2.5l-2.1-1.6l2.6-0.1zM419 294.3l0.9 2.5l2.6 0.1l-2.1 1.6l0.7 2.5l-2.2-1.5l-2.2 1.5l0.7-2.5l-2.1-1.6l2.6-0.1zM420.8 297.6l0.9 2.5l2.6 0.1l-2.1 1.6l0.7 2.5l-2.2-1.5l-2.2 1.5l0.7-2.5l-2.1-1.6l2.6-0.1zM399.1 304.7l0.9 2.5l2.6 0.1l-2.1 1.6l0.7 2.5l-2.2-1.5l-2.2 1.5l0.7-2.5l-2.1-1.6l2.6-0.1zM432.1 326.1l0.9 2.5l2.6 0.1l-2.1 1.6l0.7 2.5l-2.2-1.5l-2.2 1.5l0.7-2.5l-2.1-1.6l2.6-0.1zM464 322.6l0.9 2.5l2.6 0.1l-2.1 1.6l0.7 2.5l-2.2-1.5l-2.2 1.5l0.7-2.5l-2.1-1.6l2.6-0.1zM429.7 309.4l0.9 2.5l2.6 0.1l-2.1 1.6l0.7 2.5l-2.2-1.5l-2.2 1.5l0.7-2.5l-2.1-1.6l2.6-0.1zM432.4 340l0.9 2.5l2.6 0.1l-2.1 1.6l0.7 2.5l-2.2-1.5l-2.2 1.5l0.7-2.5l-2.1-1.6l2.6-0.1zM457 319.2l0.9 2.5l2.6 0.1l-2.1 1.6l0.7 2.5l-2.2-1.5l-2.2 1.5l0.7-2.5l-2.1-1.6l2.6-0.1zM422 302l0.9 2.5l2.6 0.1l-2.1 1.6l0.7 2.5l-2.2-1.5l-2.2 1.5l0.7-2.5l-2.1-1.6l2.6-0.1zM423.5 278.5l0.9 2.5l2.6 0.1l-2.1 1.6l0.7 2.5l-2.2-1.5l-2.2 1.5l0.7-2.5l-2.1-1.6l2.6-0.1zM411.1 316.9l0.9 2.5l2.6 0.1l-2.1 1.6l0.7 2.5l-2.2-1.5l-2.2 1.5l0.7-2.5l-2.1-1.6l2.6-0.1zM400.8 283.7l0.9 2.5l2.6 0.1l-2.1 1.6l0.7 2.5l-2.2-1.5l-2.2 1.5l0.7-2.5l-2.1-1.6l2.6-0.1zM388.7 308l0.9 2.5l2.6 0.1l-2.1 1.6l0.7 2.5l-2.2-1.5l-2.2 1.5l0.7-2.5l-2.1-1.6l2.6-0.1zM436.5 288.1l0.9 2.5l2.6 0.1l-2.1 1.6l0.7 2.5l-2.2-1.5l-2.2 1.5l0.7-2.5l-2.1-1.6l2.6-0.1zM437.9 338.5l0.9 2.5l2.6 0.1l-2.1 1.6l0.7 2.5l-2.2-1.5l-2.2 1.5l0.7-2.5l-2.1-1.6l2.6-0.1zM427.5 297.1l0.9 2.5l2.6 0.1l-2.1 1.6l0.7 2.5l-2.2-1.5l-2.2 1.5l0.7-2.5l-2.1-1.6l2.6-0.1zM391.5 319.3l0.9 2.5l2.6 0.1l-2.1 1.6l0.7 2.5l-2.2-1.5l-2.2 1.5l0.7-2.5l-2.1-1.6l2.6-0.1zM392.4 304.7l0.9 2.5l2.6 0.1l-2.1 1.6l0.7 2.5l-2.2-1.5l-2.2 1.5l0.7-2.5l-2.1-1.6l2.6-0.1zM449.8 307.2l0.9 2.5l2.6 0.1l-2.1 1.6l0.7 2.5l-2.2-1.5l-2.2 1.5l0.7-2.5l-2.1-1.6l2.6-0.1zM416.5 322.3l0.9 2.5l2.6 0.1l-2.1 1.6l0.7 2.5l-2.2-1.5l-2.2 1.5l0.7-2.5l-2.1-1.6l2.6-0.1zM443.8 340.3l0.9 2.5l2.6 0.1l-2.1 1.6l0.7 2.5l-2.2-1.5l-2.2 1.5l0.7-2.5l-2.1-1.6l2.6-0.1zM415.7 346.3l0.9 2.5l2.6 0.1l-2.1 1.6l0.7 2.5l-2.2-1.5l-2.2 1.5l0.7-2.5l-2.1-1.6l2.6-0.1zM388.5 289.9l0.9 2.5l2.6 0.1l-2.1 1.6l0.7 2.5l-2.2-1.5l-2.2 1.5l0.7-2.5l-2.1-1.6l2.6-0.1zM383.3 316l0.9 2.5l2.6 0.1l-2.1 1.6l0.7 2.5l-2.2-1.5l-2.2 1.5l0.7-2.5l-2.1-1.6l2.6-0.1zM429.7 337.5l0.9 2.5l2.6 0.1l-2.1 1.6l0.7 2.5l-2.2-1.5l-2.2 1.5l0.7-2.5l-2.1-1.6l2.6-0.1zM396.1 293.4l0.9 2.5l2.6 0.1l-2.1 1.6l0.7 2.5l-2.2-1.5l-2.2 1.5l0.7-2.5l-2.1-1.6l2.6-0.1zM464.4 308l0.9 2.5l2.6 0.1l-2.1 1.6l0.7 2.5l-2.2-1.5l-2.2 1.5l0.7-2.5l-2.1-1.6l2.6-0.1zM409.2 313.8l0.9 2.5l2.6 0.1l-2.1 1.6l0.7 2.5l-2.2-1.5l-2.2 1.5l0.7-2.5l-2.1-1.6l2.6-0.1zM451.8 293.8l0.9 2.5l2.6 0.1l-2.1 1.6l0.7 2.5l-2.2-1.5l-2.2 1.5l0.7-2.5l-2.1-1.6l2.6-0.1zM425.2 287.7l0.9 2.5l2.6 0.1l-2.1 1.6l0.7 2.5l-2.2-1.5l-2.2 1.5l0.7-2.5l-2.1-1.6l2.6-0.1zM448.1 314.4l0.9 2.5l2.6 0.1l-2.1 1.6l0.7 2.5l-2.2-1.5l-2.2 1.5l0.7-2.5l-2.1-1.6l2.6-0.1zM384.2 332.9l0.9 2.5l2.6 0.1l-2.1 1.6l0.7 2.5l-2.2-1.5l-2.2 1.5l0.7-2.5l-2.1-1.6l2.6-0.1zM442.3 314.3l0.9 2.5l2.6 0.1l-2.1 1.6l0.7 2.5l-2.2-1.5l-2.2 1.5l0.7-2.5l-2.1-1.6l2.6-0.1zM410.4 308.2l0.9 2.5l2.6 0.1l-2.1 1.6l0.7 2.5l-2.2-1.5l-2.2 1.5l0.7-2.5l-2.1-1.6l2.6-0.1zM435.6 287.5l0.9 2.5l2.6 0.1l-2.1 1.6l0.7 2.5l-2.2-1.5l-2.2 1.5l0.7-2.5l-2.1-1.6l2.6-0.1zM451.8 306.5l0.9 2.5l2.6 0.1l-2.1 1.6l0.7 2.5l-2.2-1.5l-2.2 1.5l0.7-2.5l-2.1-1.6l2.6-0.1zM413.9 318l0.9 2.5l2.6 0.1l-2.1 1.6l0.7 2.5l-2.2-1.5l-2.2 1.5l0.7-2.5l-2.1-1.6l2.6-0.1zM427.7 295.4l0.9 2.5l2.6 0.1l-2.1 1.6l0.7 2.5l-2.2-1.5l-2.2 1.5l0.7-2.5l-2.1-1.6l2.6-0.1zM396.6 344.3l0.9 2.5l2.6 0.1l-2.1 1.6l0.7 2.5l-2.2-1.5l-2.2 1.5l0.7-2.5l-2.1-1.6l2.6-0.1zM417.5 318.1l0.9 2.5l2.6 0.1l-2.1 1.6l0.7 2.5l-2.2-1.5l-2.2 1.5l0.7-2.5l-2.1-1.6l2.6-0.1zM435.7 334.6l0.9 2.5l2.6 0.1l-2.1 1.6l0.7 2.5l-2.2-1.5l-2.2 1.5l0.7-2.5l-2.1-1.6l2.6-0.1zM423.7 300.6l0.9 2.5l2.6 0.1l-2.1 1.6l0.7 2.5l-2.2-1.5l-2.2 1.5l0.7-2.5l-2.1-1.6l2.6-0.1zM436.6 318.9l0.9 2.5l2.6 0.1l-2.1 1.6l0.7 2.5l-2.2-1.5l-2.2 1.5l0.7-2.5l-2.1-1.6l2.6-0.1zM418 294.4l0.9 2.5l2.6 0.1l-2.1 1.6l0.7 2.5l-2.2-1.5l-2.2 1.5l0.7-2.5l-2.1-1.6l2.6-0.1zM378 311.7l0.9 2.5l2.6 0.1l-2.1 1.6l0.7 2.5l-2.2-1.5l-2.2 1.5l0.7-2.5l-2.1-1.6l2.6-0.1zM418.8 277.8l0.9 2.5l2.6 0.1l-2.1 1.6l0.7 2.5l-2.2-1.5l-2.2 1.5l0.7-2.5l-2.1-1.6l2.6-0.1zM406.6 321.1l0.9 2.5l2.6 0.1l-2.1 1.6l0.7 2.5l-2.2-1.5l-2.2 1.5l0.7-2.5l-2.1-1.6l2.6-0.1zM433.1 325.3l0.9 2.5l2.6 0.1l-2.1 1.6l0.7 2.5l-2.2-1.5l-2.2 1.5l0.7-2.5l-2.1-1.6l2.6-0.1zM431.4 289.9l0.9 2.5l2.6 0.1l-2.1 1.6l0.7 2.5l-2.2-1.5l-2.2 1.5l0.7-2.5l-2.1-1.6l2.6-0.1zM419.8 281.2l0.9 2.5l2.6 0.1l-2.1 1.6l0.7 2.5l-2.2-1.5l-2.2 1.5l0.7-2.5l-2.1-1.6l2.6-0.1zM436.6 298.4l0.9 2.5l2.6 0.1l-2.1 1.6l0.7 2.5l-2.2-1.5l-2.2 1.5l0.7-2.5l-2.1-1.6l2.6-0.1zM388.5 291.1l0.9 2.5l2.6 0.1l-2.1 1.6l0.7 2.5l-2.2-1.5l-2.2 1.5l0.7-2.5l-2.1-1.6l2.6-0.1zM421.2 326.8l0.9 2.5l2.6 0.1l-2.1 1.6l0.7 2.5l-2.2-1.5l-2.2 1.5l0.7-2.5l-2.1-1.6l2.6-0.1zM412.8 310.8l0.9 2.5l2.6 0.1l-2.1 1.6l0.7 2.5l-2.2-1.5l-2.2 1.5l0.7-2.5l-2.1-1.6l2.6-0.1zM416.1 341.9l0.9 2.5l2.6 0.1l-2.1 1.6l0.7 2.5l-2.2-1.5l-2.2 1.5l0.7-2.5l-2.1-1.6l2.6-0.1zM452.4 301.4l0.9 2.5l2.6 0.1l-2.1 1.6l0.7 2.5l-2.2-1.5l-2.2 1.5l0.7-2.5l-2.1-1.6l2.6-0.1zM386.6 279.3l0.9 2.5l2.6 0.1l-2.1 1.6l0.7 2.5l-2.2-1.5l-2.2 1.5l0.7-2.5l-2.1-1.6l2.6-0.1zM418.4 312.3l0.9 2.5l2.6 0.1l-2.1 1.6l0.7 2.5l-2.2-1.5l-2.2 1.5l0.7-2.5l-2.1-1.6l2.6-0.1zM385.2 329.3l0.9 2.5l2.6 0.1l-2.1 1.6l0.7 2.5l-2.2-1.5l-2.2 1.5l0.7-2.5l-2.1-1.6l2.6-0.1zM416.7 295.4l0.9 2.5l2.6 0.1l-2.1 1.6l0.7 2.5l-2.2-1.5l-2.2 1.5l0.7-2.5l-2.1-1.6l2.6-0.1zM404.6 329.3l0.9 2.5l2.6 0.1l-2.1 1.6l0.7 2.5l-2.2-1.5l-2.2 1.5l0.7-2.5l-2.1-1.6l2.6-0.1zM464.2 320.7l0.9 2.5l2.6 0.1l-2.1 1.6l0.7 2.5l-2.2-1.5l-2.2 1.5l0.7-2.5l-2.1-1.6l2.6-0.1zM428.8 308.6l0.9 2.5l2.6 0.1l-2.1 1.6l0.7 2.5l-2.2-1.5l-2.2 1.5l0.7-2.5l-2.1-1.6l2.6-0.1zM434.9 300.5l0.9 2.5l2.6 0.1l-2.1 1.6l0.7 2.5l-2.2-1.5l-2.2 1.5l0.7-2.5l-2.1-1.6l2.6-0.1zM457.7 311.7l0.9 2.5l2.6 0.1l-2.1 1.6l0.7 2.5l-2.2-1.5l-2.2 1.5l0.7-2.5l-2.1-1.6l2.6-0.1zM464 323.4l0.9 2.5l2.6 0.1l-2.1 1.6l0.7 2.5l-2.2-1.5l-2.2 1.5l0.7-2.5l-2.1-1.6l2.6-0.1zM417.7 282.1l0.9 2.5l2.6 0.1l-2.1 1.6l0.7 2.5l-2.2-1.5l-2.2 1.5l0.7-2.5l-2.1-1.6l2.6-0.1zM407.4 303.1l0.9 2.5l2.6 0.1l-2.1 1.6l0.7 2.5l-2.2-1.5l-2.2 1.5l0.7-2.5l-2.1-1.6l2.6-0.1zM400.6 303.6l0.9 2.5l2.6 0.1l-2.1 1.6l0.7 2.5l-2.2-1.5l-2.2 1.5l0.7-2.5l-2.1-1.6l2.6-0.1zM404.3 315.5l0.9 2.5l2.6 0.1l-2.1 1.6l0.7 2.5l-2.2-1.5l-2.2 1.5l0.7-2.5l-2.1-1.6l2.6-0.1zM451.3 286.4l0.9 2.5l2.6 0.1l-2.1 1.6l0.7 2.5l-2.2-1.5l-2.2 1.5l0.7-2.5l-2.1-1.6l2.6-0.1zM422.6 295.5l0.9 2.5l2.6 0.1l-2.1 1.6l0.7 2.5l-2.2-1.5l-2.2 1.5l0.7-2.5l-2.1-1.6l2.6-0.1zM401.3 289.6l0.9 2.5l2.6 0.1l-2.1 1.6l0.7 2.5l-2.2-1.5l-2.2 1.5l0.7-2.5l-2.1-1.6l2.6-0.1zM417.5 312.3l0.9 2.5l2.6 0.1l-2.1 1.6l0.7 2.5l-2.2-1.5l-2.2 1.5l0.7-2.5l-2.1-1.6l2.6-0.1zM400 308.1l0.9 2.5l2.6 0.1l-2.1 1.6l0.7 2.5l-2.2-1.5l-2.2 1.5l0.7-2.5l-2.1-1.6l2.6-0.1zM399.3 299.2l0.9 2.5l2.6 0.1l-2.1 1.6l0.7 2.5l-2.2-1.5l-2.2 1.5l0.7-2.5l-2.1-1.6l2.6-0.1zM416.5 321.2l0.9 2.5l2.6 0.1l-2.1 1.6l0.7 2.5l-2.2-1.5l-2.2 1.5l0.7-2.5l-2.1-1.6l2.6-0.1zM401.2 319.2l0.9 2.5l2.6 0.1l-2.1 1.6l0.7 2.5l-2.2-1.5l-2.2 1.5l0.7-2.5l-2.1-1.6l2.6-0.1zM447.3 314.5l0.9 2.5l2.6 0.1l-2.1 1.6l0.7 2.5l-2.2-1.5l-2.2 1.5l0.7-2.5l-2.1-1.6l2.6-0.1zM388.9 293.1l0.9 2.5l2.6 0.1l-2.1 1.6l0.7 2.5l-2.2-1.5l-2.2 1.5l0.7-2.5l-2.1-1.6l2.6-0.1zM409.8 328.9l0.9 2.5l2.6 0.1l-2.1 1.6l0.7 2.5l-2.2-1.5l-2.2 1.5l0.7-2.5l-2.1-1.6l2.6-0.1zM436.3 318.9l0.9 2.5l2.6 0.1l-2.1 1.6l0.7 2.5l-2.2-1.5l-2.2 1.5l0.7-2.5l-2.1-1.6l2.6-0.1zM419.3 320.6l0.9 2.5l2.6 0.1l-2.1 1.6l0.7 2.5l-2.2-1.5l-2.2 1.5l0.7-2.5l-2.1-1.6l2.6-0.1zM421.6 285l0.9 2.5l2.6 0.1l-2.1 1.6l0.7 2.5l-2.2-1.5l-2.2 1.5l0.7-2.5l-2.1-1.6l2.6-0.1zM412.3 290.4l0.9 2.5l2.6 0.1l-2.1 1.6l0.7 2.5l-2.2-1.5l-2.2 1.5l0.7-2.5l-2.1-1.6l2.6-0.1zM409.1 316.4l0.9 2.5l2.6 0.1l-2.1 1.6l0.7 2.5l-2.2-1.5l-2.2 1.5l0.7-2.5l-2.1-1.6l2.6-0.1zM432.2 279.2l0.9 2.5l2.6 0.1l-2.1 1.6l0.7 2.5l-2.2-1.5l-2.2 1.5l0.7-2.5l-2.1-1.6l2.6-0.1zM397.7 324.7l0.9 2.5l2.6 0.1l-2.1 1.6l0.7 2.5l-2.2-1.5l-2.2 1.5l0.7-2.5l-2.1-1.6l2.6-0.1zM427.6 291.4l0.9 2.5l2.6 0.1l-2.1 1.6l0.7 2.5l-2.2-1.5l-2.2 1.5l0.7-2.5l-2.1-1.6l2.6-0.1zM401 306.9l0.9 2.5l2.6 0.1l-2.1 1.6l0.7 2.5l-2.2-1.5l-2.2 1.5l0.7-2.5l-2.1-1.6l2.6-0.1zM437.1 322.4l0.9 2.5l2.6 0.1l-2.1 1.6l0.7 2.5l-2.2-1.5l-2.2 1.5l0.7-2.5l-2.1-1.6l2.6-0.1zM443.9 295.4l0.9 2.5l2.6 0.1l-2.1 1.6l0.7 2.5l-2.2-1.5l-2.2 1.5l0.7-2.5l-2.1-1.6l2.6-0.1zM418.6 301.6l0.9 2.5l2.6 0.1l-2.1 1.6l0.7 2.5l-2.2-1.5l-2.2 1.5l0.7-2.5l-2.1-1.6l2.6-0.1zM437.2 304.3l0.9 2.5l2.6 0.1l-2.1 1.6l0.7 2.5l-2.2-1.5l-2.2 1.5l0.7-2.5l-2.1-1.6l2.6-0.1zM417.3 309.3l0.9 2.5l2.6 0.1l-2.1 1.6l0.7 2.5l-2.2-1.5l-2.2 1.5l0.7-2.5l-2.1-1.6l2.6-0.1zM405 299.9l0.9 2.5l2.6 0.1l-2.1 1.6l0.7 2.5l-2.2-1.5l-2.2 1.5l0.7-2.5l-2.1-1.6l2.6-0.1zM433 338.5l0.9 2.5l2.6 0.1l-2.1 1.6l0.7 2.5l-2.2-1.5l-2.2 1.5l0.7-2.5l-2.1-1.6l2.6-0.1zM411.2 291.1l0.9 2.5l2.6 0.1l-2.1 1.6l0.7 2.5l-2.2-1.5l-2.2 1.5l0.7-2.5l-2.1-1.6l2.6-0.1zM406.2 330.1l0.9 2.5l2.6 0.1l-2.1 1.6l0.7 2.5l-2.2-1.5l-2.2 1.5l0.7-2.5l-2.1-1.6l2.6-0.1zM430.4 302.3l0.9 2.5l2.6 0.1l-2.1 1.6l0.7 2.5l-2.2-1.5l-2.2 1.5l0.7-2.5l-2.1-1.6l2.6-0.1zM412.8 299.6l0.9 2.5l2.6 0.1l-2.1 1.6l0.7 2.5l-2.2-1.5l-2.2 1.5l0.7-2.5l-2.1-1.6l2.6-0.1zM426.9 304.8l0.9 2.5l2.6 0.1l-2.1 1.6l0.7 2.5l-2.2-1.5l-2.2 1.5l0.7-2.5l-2.1-1.6l2.6-0.1zM462 322.9l0.9 2.5l2.6 0.1l-2.1 1.6l0.7 2.5l-2.2-1.5l-2.2 1.5l0.7-2.5l-2.1-1.6l2.6-0.1zM404.8 318.8l0.9 2.5l2.6 0.1l-2.1 1.6l0.7 2.5l-2.2-1.5l-2.2 1.5l0.7-2.5l-2.1-1.6l2.6-0.1zM401.6 298.2l0.9 2.5l2.6 0.1l-2.1 1.6l0.7 2.5l-2.2-1.5l-2.2 1.5l0.7-2.5l-2.1-1.6l2.6-0.1zM429.6 308.2l0.9 2.5l2.6 0.1l-2.1 1.6l0.7 2.5l-2.2-1.5l-2.2 1.5l0.7-2.5l-2.1-1.6l2.6-0.1zM460.4 320.2l0.9 2.5l2.6 0.1l-2.1 1.6l0.7 2.5l-2.2-1.5l-2.2 1.5l0.7-2.5l-2.1-1.6l2.6-0.1zM383.5 323.9l0.9 2.5l2.6 0.1l-2.1 1.6l0.7 2.5l-2.2-1.5l-2.2 1.5l0.7-2.5l-2.1-1.6l2.6-0.1zM388.3 301.1l0.9 2.5l2.6 0.1l-2.1 1.6l0.7 2.5l-2.2-1.5l-2.2 1.5l0.7-2.5l-2.1-1.6l2.6-0.1zM455.1 312.1l0.9 2.5l2.6 0.1l-2.1 1.6l0.7 2.5l-2.2-1.5l-2.2 1.5l0.7-2.5l-2.1-1.6l2.6-0.1zM440.1 287.4l0.9 2.5l2.6 0.1l-2.1 1.6l0.7 2.5l-2.2-1.5l-2.2 1.5l0.7-2.5l-2.1-1.6l2.6-0.1zM391.7 294l0.9 2.5l2.6 0.1l-2.1 1.6l0.7 2.5l-2.2-1.5l-2.2 1.5l0.7-2.5l-2.1-1.6l2.6-0.1zM458.3 284.9l0.9 2.5l2.6 0.1l-2.1 1.6l0.7 2.5l-2.2-1.5l-2.2 1.5l0.7-2.5l-2.1-1.6l2.6-0.1zM450.3 299.8l0.9 2.5l2.6 0.1l-2.1 1.6l0.7 2.5l-2.2-1.5l-2.2 1.5l0.7-2.5l-2.1-1.6l2.6-0.1zM437.9 326.1l0.9 2.5l2.6 0.1l-2.1 1.6l0.7 2.5l-2.2-1.5l-2.2 1.5l0.7-2.5l-2.1-1.6l2.6-0.1zM430.5 314.8l0.9 2.5l2.6 0.1l-2.1 1.6l0.7 2.5l-2.2-1.5l-2.2 1.5l0.7-2.5l-2.1-1.6l2.6-0.1zM388.6 346.4l0.9 2.5l2.6 0.1l-2.1 1.6l0.7 2.5l-2.2-1.5l-2.2 1.5l0.7-2.5l-2.1-1.6l2.6-0.1zM409.7 306.8l0.9 2.5l2.6 0.1l-2.1 1.6l0.7 2.5l-2.2-1.5l-2.2 1.5l0.7-2.5l-2.1-1.6l2.6-0.1zM430 302.3l0.9 2.5l2.6 0.1l-2.1 1.6l0.7 2.5l-2.2-1.5l-2.2 1.5l0.7-2.5l-2.1-1.6l2.6-0.1zM468.7 305l0.9 2.5l2.6 0.1l-2.1 1.6l0.7 2.5l-2.2-1.5l-2.2 1.5l0.7-2.5l-2.1-1.6l2.6-0.1zM404.6 311.5l0.9 2.5l2.6 0.1l-2.1 1.6l0.7 2.5l-2.2-1.5l-2.2 1.5l0.7-2.5l-2.1-1.6l2.6-0.1zM442.5 318.2l0.9 2.5l2.6 0.1l-2.1 1.6l0.7 2.5l-2.2-1.5l-2.2 1.5l0.7-2.5l-2.1-1.6l2.6-0.1zM409.1 341.6l0.9 2.5l2.6 0.1l-2.1 1.6l0.7 2.5l-2.2-1.5l-2.2 1.5l0.7-2.5l-2.1-1.6l2.6-0.1zM400.2 312l0.9 2.5l2.6 0.1l-2.1 1.6l0.7 2.5l-2.2-1.5l-2.2 1.5l0.7-2.5l-2.1-1.6l2.6-0.1zM400.2 300l0.9 2.5l2.6 0.1l-2.1 1.6l0.7 2.5l-2.2-1.5l-2.2 1.5l0.7-2.5l-2.1-1.6l2.6-0.1zM423.8 353.9l0.9 2.5l2.6 0.1l-2.1 1.6l0.7 2.5l-2.2-1.5l-2.2 1.5l0.7-2.5l-2.1-1.6l2.6-0.1zM437.4 313.8l0.9 2.5l2.6 0.1l-2.1 1.6l0.7 2.5l-2.2-1.5l-2.2 1.5l0.7-2.5l-2.1-1.6l2.6-0.1zM431.1 321.1l0.9 2.5l2.6 0.1l-2.1 1.6l0.7 2.5l-2.2-1.5l-2.2 1.5l0.7-2.5l-2.1-1.6l2.6-0.1zM427.1 296.2l0.9 2.5l2.6 0.1l-2.1 1.6l0.7 2.5l-2.2-1.5l-2.2 1.5l0.7-2.5l-2.1-1.6l2.6-0.1zM447.9 296.4l0.9 2.5l2.6 0.1l-2.1 1.6l0.7 2.5l-2.2-1.5l-2.2 1.5l0.7-2.5l-2.1-1.6l2.6-0.1zM419.7 320.9l0.9 2.5l2.6 0.1l-2.1 1.6l0.7 2.5l-2.2-1.5l-2.2 1.5l0.7-2.5l-2.1-1.6l2.6-0.1zM447.6 342.2l0.9 2.5l2.6 0.1l-2.1 1.6l0.7 2.5l-2.2-1.5l-2.2 1.5l0.7-2.5l-2.1-1.6l2.6-0.1zM412.1 318.3l0.9 2.5l2.6 0.1l-2.1 1.6l0.7 2.5l-2.2-1.5l-2.2 1.5l0.7-2.5l-2.1-1.6l2.6-0.1zM457.9 306.1l0.9 2.5l2.6 0.1l-2.1 1.6l0.7 2.5l-2.2-1.5l-2.2 1.5l0.7-2.5l-2.1-1.6l2.6-0.1zM446 312.3l0.9 2.5l2.6 0.1l-2.1 1.6l0.7 2.5l-2.2-1.5l-2.2 1.5l0.7-2.5l-2.1-1.6l2.6-0.1zM397.6 311l0.9 2.5l2.6 0.1l-2.1 1.6l0.7 2.5l-2.2-1.5l-2.2 1.5l0.7-2.5l-2.1-1.6l2.6-0.1zM446.8 283.7l0.9 2.5l2.6 0.1l-2.1 1.6l0.7 2.5l-2.2-1.5l-2.2 1.5l0.7-2.5l-2.1-1.6l2.6-0.1zM375.2 301.9l0.9 2.5l2.6 0.1l-2.1 1.6l0.7 2.5l-2.2-1.5l-2.2 1.5l0.7-2.5l-2.1-1.6l2.6-0.1zM412.2 283.2l0.9 2.5l2.6 0.1l-2.1 1.6l0.7 2.5l-2.2-1.5l-2.2 1.5l0.7-2.5l-2.1-1.6l2.6-0.1zM412.8 313.2l0.9 2.5l2.6 0.1l-2.1 1.6l0.7 2.5l-2.2-1.5l-2.2 1.5l0.7-2.5l-2.1-1.6l2.6-0.1zM434.4 291.1l0.9 2.5l2.6 0.1l-2.1 1.6l0.7 2.5l-2.2-1.5l-2.2 1.5l0.7-2.5l-2.1-1.6l2.6-0.1zM375.8 336.9l0.9 2.5l2.6 0.1l-2.1 1.6l0.7 2.5l-2.2-1.5l-2.2 1.5l0.7-2.5l-2.1-1.6l2.6-0.1zM391.7 332.2l0.9 2.5l2.6 0.1l-2.1 1.6l0.7 2.5l-2.2-1.5l-2.2 1.5l0.7-2.5l-2.1-1.6l2.6-0.1zM416.6 292.8l0.9 2.5l2.6 0.1l-2.1 1.6l0.7 2.5l-2.2-1.5l-2.2 1.5l0.7-2.5l-2.1-1.6l2.6-0.1zM405.3 312.2l0.9 2.5l2.6 0.1l-2.1 1.6l0.7 2.5l-2.2-1.5l-2.2 1.5l0.7-2.5l-2.1-1.6l2.6-0.1zM444.6 316.8l0.9 2.5l2.6 0.1l-2.1 1.6l0.7 2.5l-2.2-1.5l-2.2 1.5l0.7-2.5l-2.1-1.6l2.6-0.1zM407.8 322.4l0.9 2.5l2.6 0.1l-2.1 1.6l0.7 2.5l-2.2-1.5l-2.2 1.5l0.7-2.5l-2.1-1.6l2.6-0.1zM415.2 312.7l0.9 2.5l2.6 0.1l-2.1 1.6l0.7 2.5l-2.2-1.5l-2.2 1.5l0.7-2.5l-2.1-1.6l2.6-0.1zM429 325.8l0.9 2.5l2.6 0.1l-2.1 1.6l0.7 2.5l-2.2-1.5l-2.2 1.5l0.7-2.5l-2.1-1.6l2.6-0.1zM405.6 296l0.9 2.5l2.6 0.1l-2.1 1.6l0.7 2.5l-2.2-1.5l-2.2 1.5l0.7-2.5l-2.1-1.6l2.6-0.1zM404.5 313.3l0.9 2.5l2.6 0.1l-2.1 1.6l0.7 2.5l-2.2-1.5l-2.2 1.5l0.7-2.5l-2.1-1.6l2.6-0.1zM399.2 338.9l0.9 2.5l2.6 0.1l-2.1 1.6l0.7 2.5l-2.2-1.5l-2.2 1.5l0.7-2.5l-2.1-1.6l2.6-0.1zM385 308.4l0.9 2.5l2.6 0.1l-2.1 1.6l0.7 2.5l-2.2-1.5l-2.2 1.5l0.7-2.5l-2.1-1.6l2.6-0.1zM409.3 290.6l0.9 2.5l2.6 0.1l-2.1 1.6l0.7 2.5l-2.2-1.5l-2.2 1.5l0.7-2.5l-2.1-1.6l2.6-0.1zM426.9 327l0.9 2.5l2.6 0.1l-2.1 1.6l0.7 2.5l-2.2-1.5l-2.2 1.5l0.7-2.5l-2.1-1.6l2.6-0.1zM449.9 334.3l0.9 2.5l2.6 0.1l-2.1 1.6l0.7 2.5l-2.2-1.5l-2.2 1.5l0.7-2.5l-2.1-1.6l2.6-0.1zM419 323.1l0.9 2.5l2.6 0.1l-2.1 1.6l0.7 2.5l-2.2-1.5l-2.2 1.5l0.7-2.5l-2.1-1.6l2.6-0.1zM428.3 294l0.9 2.5l2.6 0.1l-2.1 1.6l0.7 2.5l-2.2-1.5l-2.2 1.5l0.7-2.5l-2.1-1.6l2.6-0.1zM380.1 319.4l0.9 2.5l2.6 0.1l-2.1 1.6l0.7 2.5l-2.2-1.5l-2.2 1.5l0.7-2.5l-2.1-1.6l2.6-0.1zM447.8 283l0.9 2.5l2.6 0.1l-2.1 1.6l0.7 2.5l-2.2-1.5l-2.2 1.5l0.7-2.5l-2.1-1.6l2.6-0.1zM422.4 305.2l0.9 2.5l2.6 0.1l-2.1 1.6l0.7 2.5l-2.2-1.5l-2.2 1.5l0.7-2.5l-2.1-1.6l2.6-0.1zM433.6 330.1l0.9 2.5l2.6 0.1l-2.1 1.6l0.7 2.5l-2.2-1.5l-2.2 1.5l0.7-2.5l-2.1-1.6l2.6-0.1zM410.3 301.2l0.9 2.5l2.6 0.1l-2.1 1.6l0.7 2.5l-2.2-1.5l-2.2 1.5l0.7-2.5l-2.1-1.6l2.6-0.1zM437.3 324.5l0.9 2.5l2.6 0.1l-2.1 1.6l0.7 2.5l-2.2-1.5l-2.2 1.5l0.7-2.5l-2.1-1.6l2.6-0.1zM426.7 334l0.9 2.5l2.6 0.1l-2.1 1.6l0.7 2.5l-2.2-1.5l-2.2 1.5l0.7-2.5l-2.1-1.6l2.6-0.1zM400.5 306.3l0.9 2.5l2.6 0.1l-2.1 1.6l0.7 2.5l-2.2-1.5l-2.2 1.5l0.7-2.5l-2.1-1.6l2.6-0.1zM409.7 323.2l0.9 2.5l2.6 0.1l-2.1 1.6l0.7 2.5l-2.2-1.5l-2.2 1.5l0.7-2.5l-2.1-1.6l2.6-0.1zM400.5 307.7l0.9 2.5l2.6 0.1l-2.1 1.6l0.7 2.5l-2.2-1.5l-2.2 1.5l0.7-2.5l-2.1-1.6l2.6-0.1zM454.5 295.8l0.9 2.5l2.6 0.1l-2.1 1.6l0.7 2.5l-2.2-1.5l-2.2 1.5l0.7-2.5l-2.1-1.6l2.6-0.1zM410.3 292.9l0.9 2.5l2.6 0.1l-2.1 1.6l0.7 2.5l-2.2-1.5l-2.2 1.5l0.7-2.5l-2.1-1.6l2.6-0.1zM421.9 285.7l0.9 2.5l2.6 0.1l-2.1 1.6l0.7 2.5l-2.2-1.5l-2.2 1.5l0.7-2.5l-2.1-1.6l2.6-0.1zM410.3 287.7l0.9 2.5l2.6 0.1l-2.1 1.6l0.7 2.5l-2.2-1.5l-2.2 1.5l0.7-2.5l-2.1-1.6l2.6-0.1zM436.8 292.3l0.9 2.5l2.6 0.1l-2.1 1.6l0.7 2.5l-2.2-1.5l-2.2 1.5l0.7-2.5l-2.1-1.6l2.6-0.1zM420.8 287.8l0.9 2.5l2.6 0.1l-2.1 1.6l0.7 2.5l-2.2-1.5l-2.2 1.5l0.7-2.5l-2.1-1.6l2.6-0.1zM413.9 296.8l0.9 2.5l2.6 0.1l-2.1 1.6l0.7 2.5l-2.2-1.5l-2.2 1.5l0.7-2.5l-2.1-1.6l2.6-0.1zM414.4 302.1l0.9 2.5l2.6 0.1l-2.1 1.6l0.7 2.5l-2.2-1.5l-2.2 1.5l0.7-2.5l-2.1-1.6l2.6-0.1zM414.4 315l0.9 2.5l2.6 0.1l-2.1 1.6l0.7 2.5l-2.2-1.5l-2.2 1.5l0.7-2.5l-2.1-1.6l2.6-0.1zM405.4 322.6l0.9 2.5l2.6 0.1l-2.1 1.6l0.7 2.5l-2.2-1.5l-2.2 1.5l0.7-2.5l-2.1-1.6l2.6-0.1zM447.9 306.6l0.9 2.5l2.6 0.1l-2.1 1.6l0.7 2.5l-2.2-1.5l-2.2 1.5l0.7-2.5l-2.1-1.6l2.6-0.1zM400.5 295.5l0.9 2.5l2.6 0.1l-2.1 1.6l0.7 2.5l-2.2-1.5l-2.2 1.5l0.7-2.5l-2.1-1.6l2.6-0.1zM434.7 308.6l0.9 2.5l2.6 0.1l-2.1 1.6l0.7 2.5l-2.2-1.5l-2.2 1.5l0.7-2.5l-2.1-1.6l2.6-0.1zM445.2 330.5l0.9 2.5l2.6 0.1l-2.1 1.6l0.7 2.5l-2.2-1.5l-2.2 1.5l0.7-2.5l-2.1-1.6l2.6-0.1zM407 325.6l0.9 2.5l2.6 0.1l-2.1 1.6l0.7 2.5l-2.2-1.5l-2.2 1.5l0.7-2.5l-2.1-1.6l2.6-0.1zM413.7 317.3l0.9 2.5l2.6 0.1l-2.1 1.6l0.7 2.5l-2.2-1.5l-2.2 1.5l0.7-2.5l-2.1-1.6l2.6-0.1zM441 293.6l0.9 2.5l2.6 0.1l-2.1 1.6l0.7 2.5l-2.2-1.5l-2.2 1.5l0.7-2.5l-2.1-1.6l2.6-0.1zM400 325.6l0.9 2.5l2.6 0.1l-2.1 1.6l0.7 2.5l-2.2-1.5l-2.2 1.5l0.7-2.5l-2.1-1.6l2.6-0.1zM420.4 300.2l0.9 2.5l2.6 0.1l-2.1 1.6l0.7 2.5l-2.2-1.5l-2.2 1.5l0.7-2.5l-2.1-1.6l2.6-0.1zM410.6 285l0.9 2.5l2.6 0.1l-2.1 1.6l0.7 2.5l-2.2-1.5l-2.2 1.5l0.7-2.5l-2.1-1.6l2.6-0.1zM398.2 292.7l0.9 2.5l2.6 0.1l-2.1 1.6l0.7 2.5l-2.2-1.5l-2.2 1.5l0.7-2.5l-2.1-1.6l2.6-0.1zM407.2 334.2l0.9 2.5l2.6 0.1l-2.1 1.6l0.7 2.5l-2.2-1.5l-2.2 1.5l0.7-2.5l-2.1-1.6l2.6-0.1zM431.1 296.1l0.9 2.5l2.6 0.1l-2.1 1.6l0.7 2.5l-2.2-1.5l-2.2 1.5l0.7-2.5l-2.1-1.6l2.6-0.1zM387.7 298l0.9 2.5l2.6 0.1l-2.1 1.6l0.7 2.5l-2.2-1.5l-2.2 1.5l0.7-2.5l-2.1-1.6l2.6-0.1zM440.1 296.5l0.9 2.5l2.6 0.1l-2.1 1.6l0.7 2.5l-2.2-1.5l-2.2 1.5l0.7-2.5l-2.1-1.6l2.6-0.1zM435.8 322.9l0.9 2.5l2.6 0.1l-2.1 1.6l0.7 2.5l-2.2-1.5l-2.2 1.5l0.7-2.5l-2.1-1.6l2.6-0.1zM392.9 316.4l0.9 2.5l2.6 0.1l-2.1 1.6l0.7 2.5l-2.2-1.5l-2.2 1.5l0.7-2.5l-2.1-1.6l2.6-0.1zM395.3 316.2l0.9 2.5l2.6 0.1l-2.1 1.6l0.7 2.5l-2.2-1.5l-2.2 1.5l0.7-2.5l-2.1-1.6l2.6-0.1zM434.2 295.6l0.9 2.5l2.6 0.1l-2.1 1.6l0.7 2.5l-2.2-1.5l-2.2 1.5l0.7-2.5l-2.1-1.6l2.6-0.1zM417.8 309.7l0.9 2.5l2.6 0.1l-2.1 1.6l0.7 2.5l-2.2-1.5l-2.2 1.5l0.7-2.5l-2.1-1.6l2.6-0.1zM401.5 310.7l0.9 2.5l2.6 0.1l-2.1 1.6l0.7 2.5l-2.2-1.5l-2.2 1.5l0.7-2.5l-2.1-1.6l2.6-0.1zM455.9 322.4l0.9 2.5l2.6 0.1l-2.1 1.6l0.7 2.5l-2.2-1.5l-2.2 1.5l0.7-2.5l-2.1-1.6l2.6-0.1zM440.4 284.1l0.9 2.5l2.6 0.1l-2.1 1.6l0.7 2.5l-2.2-1.5l-2.2 1.5l0.7-2.5l-2.1-1.6l2.6-0.1zM402.1 349.6l0.9 2.5l2.6 0.1l-2.1 1.6l0.7 2.5l-2.2-1.5l-2.2 1.5l0.7-2.5l-2.1-1.6l2.6-0.1zM473.2 299l0.9 2.5l2.6 0.1l-2.1 1.6l0.7 2.5l-2.2-1.5l-2.2 1.5l0.7-2.5l-2.1-1.6l2.6-0.1zM398.7 342l0.9 2.5l2.6 0.1l-2.1 1.6l0.7 2.5l-2.2-1.5l-2.2 1.5l0.7-2.5l-2.1-1.6l2.6-0.1zM455.7 308.4l0.9 2.5l2.6 0.1l-2.1 1.6l0.7 2.5l-2.2-1.5l-2.2 1.5l0.7-2.5l-2.1-1.6l2.6-0.1zM453.5 305.3l0.9 2.5l2.6 0.1l-2.1 1.6l0.7 2.5l-2.2-1.5l-2.2 1.5l0.7-2.5l-2.1-1.6l2.6-0.1zM427 319.5l0.9 2.5l2.6 0.1l-2.1 1.6l0.7 2.5l-2.2-1.5l-2.2 1.5l0.7-2.5l-2.1-1.6l2.6-0.1zM427.6 294.5l0.9 2.5l2.6 0.1l-2.1 1.6l0.7 2.5l-2.2-1.5l-2.2 1.5l0.7-2.5l-2.1-1.6l2.6-0.1zM433.3 290l0.9 2.5l2.6 0.1l-2.1 1.6l0.7 2.5l-2.2-1.5l-2.2 1.5l0.7-2.5l-2.1-1.6l2.6-0.1zM425.1 286.3l0.9 2.5l2.6 0.1l-2.1 1.6l0.7 2.5l-2.2-1.5l-2.2 1.5l0.7-2.5l-2.1-1.6l2.6-0.1zM406.8 307l0.9 2.5l2.6 0.1l-2.1 1.6l0.7 2.5l-2.2-1.5l-2.2 1.5l0.7-2.5l-2.1-1.6l2.6-0.1zM432.4 317.6l0.9 2.5l2.6 0.1l-2.1 1.6l0.7 2.5l-2.2-1.5l-2.2 1.5l0.7-2.5l-2.1-1.6l2.6-0.1zM444.4 326.4l0.9 2.5l2.6 0.1l-2.1 1.6l0.7 2.5l-2.2-1.5l-2.2 1.5l0.7-2.5l-2.1-1.6l2.6-0.1zM417.3 317.5l0.9 2.5l2.6 0.1l-2.1 1.6l0.7 2.5l-2.2-1.5l-2.2 1.5l0.7-2.5l-2.1-1.6l2.6-0.1zM421 279l0.9 2.5l2.6 0.1l-2.1 1.6l0.7 2.5l-2.2-1.5l-2.2 1.5l0.7-2.5l-2.1-1.6l2.6-0.1zM392.6 299.7l0.9 2.5l2.6 0.1l-2.1 1.6l0.7 2.5l-2.2-1.5l-2.2 1.5l0.7-2.5l-2.1-1.6l2.6-0.1zM436.3 321.9l0.9 2.5l2.6 0.1l-2.1 1.6l0.7 2.5l-2.2-1.5l-2.2 1.5l0.7-2.5l-2.1-1.6l2.6-0.1zM446.3 295.3l0.9 2.5l2.6 0.1l-2.1 1.6l0.7 2.5l-2.2-1.5l-2.2 1.5l0.7-2.5l-2.1-1.6l2.6-0.1zM391.9 296.5l0.9 2.5l2.6 0.1l-2.1 1.6l0.7 2.5l-2.2-1.5l-2.2 1.5l0.7-2.5l-2.1-1.6l2.6-0.1zM398.4 314.7l0.9 2.5l2.6 0.1l-2.1 1.6l0.7 2.5l-2.2-1.5l-2.2 1.5l0.7-2.5l-2.1-1.6l2.6-0.1zM432.1 319.9l0.9 2.5l2.6 0.1l-2.1 1.6l0.7 2.5l-2.2-1.5l-2.2 1.5l0.7-2.5l-2.1-1.6l2.6-0.1zM415.4 299.6l0.9 2.5l2.6 0.1l-2.1 1.6l0.7 2.5l-2.2-1.5l-2.2 1.5l0.7-2.5l-2.1-1.6l2.6-0.1zM442.6 313.2l0.9 2.5l2.6 0.1l-2.1 1.6l0.7 2.5l-2.2-1.5l-2.2 1.5l0.7-2.5l-2.1-1.6l2.6-0.1zM446.7 331.2l0.9 2.5l2.6 0.1l-2.1 1.6l0.7 2.5l-2.2-1.5l-2.2 1.5l0.7-2.5l-2.1-1.6l2.6-0.1zM434.6 320.1l0.9 2.5l2.6 0.1l-2.1 1.6l0.7 2.5l-2.2-1.5l-2.2 1.5l0.7-2.5l-2.1-1.6l2.6-0.1zM430.1 316.5l0.9 2.5l2.6 0.1l-2.1 1.6l0.7 2.5l-2.2-1.5l-2.2 1.5l0.7-2.5l-2.1-1.6l2.6-0.1zM457.2 331l0.9 2.5l2.6 0.1l-2.1 1.6l0.7 2.5l-2.2-1.5l-2.2 1.5l0.7-2.5l-2.1-1.6l2.6-0.1zM398.5 312.6l0.9 2.5l2.6 0.1l-2.1 1.6l0.7 2.5l-2.2-1.5l-2.2 1.5l0.7-2.5l-2.1-1.6l2.6-0.1zM416.3 314.6l0.9 2.5l2.6 0.1l-2.1 1.6l0.7 2.5l-2.2-1.5l-2.2 1.5l0.7-2.5l-2.1-1.6l2.6-0.1zM384.7 315l0.9 2.5l2.6 0.1l-2.1 1.6l0.7 2.5l-2.2-1.5l-2.2 1.5l0.7-2.5l-2.1-1.6l2.6-0.1zM409.2 340.3l0.9 2.5l2.6 0.1l-2.1 1.6l0.7 2.5l-2.2-1.5l-2.2 1.5l0.7-2.5l-2.1-1.6l2.6-0.1zM397.9 312.9l0.9 2.5l2.6 0.1l-2.1 1.6l0.7 2.5l-2.2-1.5l-2.2 1.5l0.7-2.5l-2.1-1.6l2.6-0.1zM432.8 290.2l0.9 2.5l2.6 0.1l-2.1 1.6l0.7 2.5l-2.2-1.5l-2.2 1.5l0.7-2.5l-2.1-1.6l2.6-0.1zM441.8 320.9l0.9 2.5l2.6 0.1l-2.1 1.6l0.7 2.5l-2.2-1.5l-2.2 1.5l0.7-2.5l-2.1-1.6l2.6-0.1zM413.6 298.1l0.9 2.5l2.6 0.1l-2.1 1.6l0.7 2.5l-2.2-1.5l-2.2 1.5l0.7-2.5l-2.1-1.6l2.6-0.1zM412.9 293.7l0.9 2.5l2.6 0.1l-2.1 1.6l0.7 2.5l-2.2-1.5l-2.2 1.5l0.7-2.5l-2.1-1.6l2.6-0.1zM408.6 302.1l0.9 2.5l2.6 0.1l-2.1 1.6l0.7 2.5l-2.2-1.5l-2.2 1.5l0.7-2.5l-2.1-1.6l2.6-0.1zM395.8 346.6l0.9 2.5l2.6 0.1l-2.1 1.6l0.7 2.5l-2.2-1.5l-2.2 1.5l0.7-2.5l-2.1-1.6l2.6-0.1zM432.3 314.5l0.9 2.5l2.6 0.1l-2.1 1.6l0.7 2.5l-2.2-1.5l-2.2 1.5l0.7-2.5l-2.1-1.6l2.6-0.1zM418.2 310.6l0.9 2.5l2.6 0.1l-2.1 1.6l0.7 2.5l-2.2-1.5l-2.2 1.5l0.7-2.5l-2.1-1.6l2.6-0.1zM405.6 340.3l0.9 2.5l2.6 0.1l-2.1 1.6l0.7 2.5l-2.2-1.5l-2.2 1.5l0.7-2.5l-2.1-1.6l2.6-0.1zM402.2 306.4l0.9 2.5l2.6 0.1l-2.1 1.6l0.7 2.5l-2.2-1.5l-2.2 1.5l0.7-2.5l-2.1-1.6l2.6-0.1zM411.5 314.7l0.9 2.5l2.6 0.1l-2.1 1.6l0.7 2.5l-2.2-1.5l-2.2 1.5l0.7-2.5l-2.1-1.6l2.6-0.1zM451.5 299.8l0.9 2.5l2.6 0.1l-2.1 1.6l0.7 2.5l-2.2-1.5l-2.2 1.5l0.7-2.5l-2.1-1.6l2.6-0.1zM406.1 291.5l0.9 2.5l2.6 0.1l-2.1 1.6l0.7 2.5l-2.2-1.5l-2.2 1.5l0.7-2.5l-2.1-1.6l2.6-0.1zM376.5 316.9l0.9 2.5l2.6 0.1l-2.1 1.6l0.7 2.5l-2.2-1.5l-2.2 1.5l0.7-2.5l-2.1-1.6l2.6-0.1zM441.3 341.9l0.9 2.5l2.6 0.1l-2.1 1.6l0.7 2.5l-2.2-1.5l-2.2 1.5l0.7-2.5l-2.1-1.6l2.6-0.1zM453.9 298l0.9 2.5l2.6 0.1l-2.1 1.6l0.7 2.5l-2.2-1.5l-2.2 1.5l0.7-2.5l-2.1-1.6l2.6-0.1zM466.4 302.1l0.9 2.5l2.6 0.1l-2.1 1.6l0.7 2.5l-2.2-1.5l-2.2 1.5l0.7-2.5l-2.1-1.6l2.6-0.1zM386 321.7l0.9 2.5l2.6 0.1l-2.1 1.6l0.7 2.5l-2.2-1.5l-2.2 1.5l0.7-2.5l-2.1-1.6l2.6-0.1zM415.2 325l0.9 2.5l2.6 0.1l-2.1 1.6l0.7 2.5l-2.2-1.5l-2.2 1.5l0.7-2.5l-2.1-1.6l2.6-0.1zM444.2 316.8l0.9 2.5l2.6 0.1l-2.1 1.6l0.7 2.5l-2.2-1.5l-2.2 1.5l0.7-2.5l-2.1-1.6l2.6-0.1zM448.9 311.1l0.9 2.5l2.6 0.1l-2.1 1.6l0.7 2.5l-2.2-1.5l-2.2 1.5l0.7-2.5l-2.1-1.6l2.6-0.1zM433.3 330.8l0.9 2.5l2.6 0.1l-2.1 1.6l0.7 2.5l-2.2-1.5l-2.2 1.5l0.7-2.5l-2.1-1.6l2.6-0.1zM444 297.7l0.9 2.5l2.6 0.1l-2.1 1.6l0.7 2.5l-2.2-1.5l-2.2 1.5l0.7-2.5l-2.1-1.6l2.6-0.1zM436.9 330.6l0.9 2.5l2.6 0.1l-2.1 1.6l0.7 2.5l-2.2-1.5l-2.2 1.5l0.7-2.5l-2.1-1.6l2.6-0.1zM420.3 296.8l0.9 2.5l2.6 0.1l-2.1 1.6l0.7 2.5l-2.2-1.5l-2.2 1.5l0.7-2.5l-2.1-1.6l2.6-0.1zM395.4 289.8l0.9 2.5l2.6 0.1l-2.1 1.6l0.7 2.5l-2.2-1.5l-2.2 1.5l0.7-2.5l-2.1-1.6l2.6-0.1zM423.8 312l0.9 2.5l2.6 0.1l-2.1 1.6l0.7 2.5l-2.2-1.5l-2.2 1.5l0.7-2.5l-2.1-1.6l2.6-0.1zM403.4 307.2l0.9 2.5l2.6 0.1l-2.1 1.6l0.7 2.5l-2.2-1.5l-2.2 1.5l0.7-2.5l-2.1-1.6l2.6-0.1zM455.5 325.5l0.9 2.5l2.6 0.1l-2.1 1.6l0.7 2.5l-2.2-1.5l-2.2 1.5l0.7-2.5l-2.1-1.6l2.6-0.1zM410.1 300.8l0.9 2.5l2.6 0.1l-2.1 1.6l0.7 2.5l-2.2-1.5l-2.2 1.5l0.7-2.5l-2.1-1.6l2.6-0.1zM403.9 312.7l0.9 2.5l2.6 0.1l-2.1 1.6l0.7 2.5l-2.2-1.5l-2.2 1.5l0.7-2.5l-2.1-1.6l2.6-0.1zM415.9 295.7l0.9 2.5l2.6 0.1l-2.1 1.6l0.7 2.5l-2.2-1.5l-2.2 1.5l0.7-2.5l-2.1-1.6l2.6-0.1zM397.8 317.6l0.9 2.5l2.6 0.1l-2.1 1.6l0.7 2.5l-2.2-1.5l-2.2 1.5l0.7-2.5l-2.1-1.6l2.6-0.1zM422.5 291.1l0.9 2.5l2.6 0.1l-2.1 1.6l0.7 2.5l-2.2-1.5l-2.2 1.5l0.7-2.5l-2.1-1.6l2.6-0.1zM403.8 320.5l0.9 2.5l2.6 0.1l-2.1 1.6l0.7 2.5l-2.2-1.5l-2.2 1.5l0.7-2.5l-2.1-1.6l2.6-0.1zM418 325.3l0.9 2.5l2.6 0.1l-2.1 1.6l0.7 2.5l-2.2-1.5l-2.2 1.5l0.7-2.5l-2.1-1.6l2.6-0.1zM429.8 299.6l0.9 2.5l2.6 0.1l-2.1 1.6l0.7 2.5l-2.2-1.5l-2.2 1.5l0.7-2.5l-2.1-1.6l2.6-0.1zM443.5 310.6l0.9 2.5l2.6 0.1l-2.1 1.6l0.7 2.5l-2.2-1.5l-2.2 1.5l0.7-2.5l-2.1-1.6l2.6-0.1zM440.6 343l0.9 2.5l2.6 0.1l-2.1 1.6l0.7 2.5l-2.2-1.5l-2.2 1.5l0.7-2.5l-2.1-1.6l2.6-0.1zM406.9 308l0.9 2.5l2.6 0.1l-2.1 1.6l0.7 2.5l-2.2-1.5l-2.2 1.5l0.7-2.5l-2.1-1.6l2.6-0.1zM400.6 307.4l0.9 2.5l2.6 0.1l-2.1 1.6l0.7 2.5l-2.2-1.5l-2.2 1.5l0.7-2.5l-2.1-1.6l2.6-0.1zM402.8 313.7l0.9 2.5l2.6 0.1l-2.1 1.6l0.7 2.5l-2.2-1.5l-2.2 1.5l0.7-2.5l-2.1-1.6l2.6-0.1zM451 297.4l0.9 2.5l2.6 0.1l-2.1 1.6l0.7 2.5l-2.2-1.5l-2.2 1.5l0.7-2.5l-2.1-1.6l2.6-0.1zM416.9 301.2l0.9 2.5l2.6 0.1l-2.1 1.6l0.7 2.5l-2.2-1.5l-2.2 1.5l0.7-2.5l-2.1-1.6l2.6-0.1zM462.9 296.2l0.9 2.5l2.6 0.1l-2.1 1.6l0.7 2.5l-2.2-1.5l-2.2 1.5l0.7-2.5l-2.1-1.6l2.6-0.1zM422.8 327.8l0.9 2.5l2.6 0.1l-2.1 1.6l0.7 2.5l-2.2-1.5l-2.2 1.5l0.7-2.5l-2.1-1.6l2.6-0.1zM379.4 311.8l0.9 2.5l2.6 0.1l-2.1 1.6l0.7 2.5l-2.2-1.5l-2.2 1.5l0.7-2.5l-2.1-1.6l2.6-0.1zM394.8 324.4l0.9 2.5l2.6 0.1l-2.1 1.6l0.7 2.5l-2.2-1.5l-2.2 1.5l0.7-2.5l-2.1-1.6l2.6-0.1zM426.5 335.2l0.9 2.5l2.6 0.1l-2.1 1.6l0.7 2.5l-2.2-1.5l-2.2 1.5l0.7-2.5l-2.1-1.6l2.6-0.1zM396.1 298.8l0.9 2.5l2.6 0.1l-2.1 1.6l0.7 2.5l-2.2-1.5l-2.2 1.5l0.7-2.5l-2.1-1.6l2.6-0.1zM429.2 323.7l0.9 2.5l2.6 0.1l-2.1 1.6l0.7 2.5l-2.2-1.5l-2.2 1.5l0.7-2.5l-2.1-1.6l2.6-0.1zM388.7 292.2l0.9 2.5l2.6 0.1l-2.1 1.6l0.7 2.5l-2.2-1.5l-2.2 1.5l0.7-2.5l-2.1-1.6l2.6-0.1zM390.8 314.1l0.9 2.5l2.6 0.1l-2.1 1.6l0.7 2.5l-2.2-1.5l-2.2 1.5l0.7-2.5l-2.1-1.6l2.6-0.1zM434.4 310.1l0.9 2.5l2.6 0.1l-2.1 1.6l0.7 2.5l-2.2-1.5l-2.2 1.5l0.7-2.5l-2.1-1.6l2.6-0.1zM435.5 314l0.9 2.5l2.6 0.1l-2.1 1.6l0.7 2.5l-2.2-1.5l-2.2 1.5l0.7-2.5l-2.1-1.6l2.6-0.1zM417.6 318.7l0.9 2.5l2.6 0.1l-2.1 1.6l0.7 2.5l-2.2-1.5l-2.2 1.5l0.7-2.5l-2.1-1.6l2.6-0.1zM453.4 323.3l0.9 2.5l2.6 0.1l-2.1 1.6l0.7 2.5l-2.2-1.5l-2.2 1.5l0.7-2.5l-2.1-1.6l2.6-0.1zM418.1 334.9l0.9 2.5l2.6 0.1l-2.1 1.6l0.7 2.5l-2.2-1.5l-2.2 1.5l0.7-2.5l-2.1-1.6l2.6-0.1zM439.1 326.2l0.9 2.5l2.6 0.1l-2.1 1.6l0.7 2.5l-2.2-1.5l-2.2 1.5l0.7-2.5l-2.1-1.6l2.6-0.1zM417.6 301.2l0.9 2.5l2.6 0.1l-2.1 1.6l0.7 2.5l-2.2-1.5l-2.2 1.5l0.7-2.5l-2.1-1.6l2.6-0.1zM458.1 293.8l0.9 2.5l2.6 0.1l-2.1 1.6l0.7 2.5l-2.2-1.5l-2.2 1.5l0.7-2.5l-2.1-1.6l2.6-0.1zM410.5 300.5l0.9 2.5l2.6 0.1l-2.1 1.6l0.7 2.5l-2.2-1.5l-2.2 1.5l0.7-2.5l-2.1-1.6l2.6-0.1zM457.9 308.8l0.9 2.5l2.6 0.1l-2.1 1.6l0.7 2.5l-2.2-1.5l-2.2 1.5l0.7-2.5l-2.1-1.6l2.6-0.1zM385.6 322.1l0.9 2.5l2.6 0.1l-2.1 1.6l0.7 2.5l-2.2-1.5l-2.2 1.5l0.7-2.5l-2.1-1.6l2.6-0.1zM441 308.4l0.9 2.5l2.6 0.1l-2.1 1.6l0.7 2.5l-2.2-1.5l-2.2 1.5l0.7-2.5l-2.1-1.6l2.6-0.1zM425.5 289.2l0.9 2.5l2.6 0.1l-2.1 1.6l0.7 2.5l-2.2-1.5l-2.2 1.5l0.7-2.5l-2.1-1.6l2.6-0.1zM420 283.1l0.9 2.5l2.6 0.1l-2.1 1.6l0.7 2.5l-2.2-1.5l-2.2 1.5l0.7-2.5l-2.1-1.6l2.6-0.1zM411 300.1l0.9 2.5l2.6 0.1l-2.1 1.6l0.7 2.5l-2.2-1.5l-2.2 1.5l0.7-2.5l-2.1-1.6l2.6-0.1zM392.3 337.2l0.9 2.5l2.6 0.1l-2.1 1.6l0.7 2.5l-2.2-1.5l-2.2 1.5l0.7-2.5l-2.1-1.6l2.6-0.1zM442.6 330.8l0.9 2.5l2.6 0.1l-2.1 1.6l0.7 2.5l-2.2-1.5l-2.2 1.5l0.7-2.5l-2.1-1.6l2.6-0.1zM394.4 311.2l0.9 2.5l2.6 0.1l-2.1 1.6l0.7 2.5l-2.2-1.5l-2.2 1.5l0.7-2.5l-2.1-1.6l2.6-0.1zM443.2 301.5l0.9 2.5l2.6 0.1l-2.1 1.6l0.7 2.5l-2.2-1.5l-2.2 1.5l0.7-2.5l-2.1-1.6l2.6-0.1zM400.4 316.2l0.9 2.5l2.6 0.1l-2.1 1.6l0.7 2.5l-2.2-1.5l-2.2 1.5l0.7-2.5l-2.1-1.6l2.6-0.1zM428.4 326.8l0.9 2.5l2.6 0.1l-2.1 1.6l0.7 2.5l-2.2-1.5l-2.2 1.5l0.7-2.5l-2.1-1.6l2.6-0.1zM424.9 345.6l0.9 2.5l2.6 0.1l-2.1 1.6l0.7 2.5l-2.2-1.5l-2.2 1.5l0.7-2.5l-2.1-1.6l2.6-0.1zM415.6 326.5l0.9 2.5l2.6 0.1l-2.1 1.6l0.7 2.5l-2.2-1.5l-2.2 1.5l0.7-2.5l-2.1-1.6l2.6-0.1zM407.5 296.1l0.9 2.5l2.6 0.1l-2.1 1.6l0.7 2.5l-2.2-1.5l-2.2 1.5l0.7-2.5l-2.1-1.6l2.6-0.1zM416.8 311.5l0.9 2.5l2.6 0.1l-2.1 1.6l0.7 2.5l-2.2-1.5l-2.2 1.5l0.7-2.5l-2.1-1.6l2.6-0.1zM390 326.2l0.9 2.5l2.6 0.1l-2.1 1.6l0.7 2.5l-2.2-1.5l-2.2 1.5l0.7-2.5l-2.1-1.6l2.6-0.1zM449 336.5l0.9 2.5l2.6 0.1l-2.1 1.6l0.7 2.5l-2.2-1.5l-2.2 1.5l0.7-2.5l-2.1-1.6l2.6-0.1zM399.6 336.9l0.9 2.5l2.6 0.1l-2.1 1.6l0.7 2.5l-2.2-1.5l-2.2 1.5l0.7-2.5l-2.1-1.6l2.6-0.1zM409 342.4l0.9 2.5l2.6 0.1l-2.1 1.6l0.7 2.5l-2.2-1.5l-2.2 1.5l0.7-2.5l-2.1-1.6l2.6-0.1zM424.8 321.6l0.9 2.5l2.6 0.1l-2.1 1.6l0.7 2.5l-2.2-1.5l-2.2 1.5l0.7-2.5l-2.1-1.6l2.6-0.1zM415.5 296.8l0.9 2.5l2.6 0.1l-2.1 1.6l0.7 2.5l-2.2-1.5l-2.2 1.5l0.7-2.5l-2.1-1.6l2.6-0.1zM445.4 327.2l0.9 2.5l2.6 0.1l-2.1 1.6l0.7 2.5l-2.2-1.5l-2.2 1.5l0.7-2.5l-2.1-1.6l2.6-0.1zM414 284.5l0.9 2.5l2.6 0.1l-2.1 1.6l0.7 2.5l-2.2-1.5l-2.2 1.5l0.7-2.5l-2.1-1.6l2.6-0.1zM456.7 322l0.9 2.5l2.6 0.1l-2.1 1.6l0.7 2.5l-2.2-1.5l-2.2 1.5l0.7-2.5l-2.1-1.6l2.6-0.1zM412.1 323.3l0.9 2.5l2.6 0.1l-2.1 1.6l0.7 2.5l-2.2-1.5l-2.2 1.5l0.7-2.5l-2.1-1.6l2.6-0.1zM414.8 292.5l0.9 2.5l2.6 0.1l-2.1 1.6l0.7 2.5l-2.2-1.5l-2.2 1.5l0.7-2.5l-2.1-1.6l2.6-0.1zM440 309.1l0.9 2.5l2.6 0.1l-2.1 1.6l0.7 2.5l-2.2-1.5l-2.2 1.5l0.7-2.5l-2.1-1.6l2.6-0.1zM381.7 320.5l0.9 2.5l2.6 0.1l-2.1 1.6l0.7 2.5l-2.2-1.5l-2.2 1.5l0.7-2.5l-2.1-1.6l2.6-0.1zM393.6 289.6l0.9 2.5l2.6 0.1l-2.1 1.6l0.7 2.5l-2.2-1.5l-2.2 1.5l0.7-2.5l-2.1-1.6l2.6-0.1zM441.3 307.5l0.9 2.5l2.6 0.1l-2.1 1.6l0.7 2.5l-2.2-1.5l-2.2 1.5l0.7-2.5l-2.1-1.6l2.6-0.1zM413.7 330.4l0.9 2.5l2.6 0.1l-2.1 1.6l0.7 2.5l-2.2-1.5l-2.2 1.5l0.7-2.5l-2.1-1.6l2.6-0.1zM381.7 299.8l0.9 2.5l2.6 0.1l-2.1 1.6l0.7 2.5l-2.2-1.5l-2.2 1.5l0.7-2.5l-2.1-1.6l2.6-0.1zM450.3 305.6l0.9 2.5l2.6 0.1l-2.1 1.6l0.7 2.5l-2.2-1.5l-2.2 1.5l0.7-2.5l-2.1-1.6l2.6-0.1zM410.1 277.6l0.9 2.5l2.6 0.1l-2.1 1.6l0.7 2.5l-2.2-1.5l-2.2 1.5l0.7-2.5l-2.1-1.6l2.6-0.1zM393.1 326.8l0.9 2.5l2.6 0.1l-2.1 1.6l0.7 2.5l-2.2-1.5l-2.2 1.5l0.7-2.5l-2.1-1.6l2.6-0.1zM432.8 303.4l0.9 2.5l2.6 0.1l-2.1 1.6l0.7 2.5l-2.2-1.5l-2.2 1.5l0.7-2.5l-2.1-1.6l2.6-0.1zM453.5 315.1l0.9 2.5l2.6 0.1l-2.1 1.6l0.7 2.5l-2.2-1.5l-2.2 1.5l0.7-2.5l-2.1-1.6l2.6-0.1zM372.9 298.8l0.9 2.5l2.6 0.1l-2.1 1.6l0.7 2.5l-2.2-1.5l-2.2 1.5l0.7-2.5l-2.1-1.6l2.6-0.1zM422.9 317.8l0.9 2.5l2.6 0.1l-2.1 1.6l0.7 2.5l-2.2-1.5l-2.2 1.5l0.7-2.5l-2.1-1.6l2.6-0.1zM431.1 327.9l0.9 2.5l2.6 0.1l-2.1 1.6l0.7 2.5l-2.2-1.5l-2.2 1.5l0.7-2.5l-2.1-1.6l2.6-0.1zM459.6 291.3l0.9 2.5l2.6 0.1l-2.1 1.6l0.7 2.5l-2.2-1.5l-2.2 1.5l0.7-2.5l-2.1-1.6l2.6-0.1zM452.8 293.3l0.9 2.5l2.6 0.1l-2.1 1.6l0.7 2.5l-2.2-1.5l-2.2 1.5l0.7-2.5l-2.1-1.6l2.6-0.1zM455.9 304.6l0.9 2.5l2.6 0.1l-2.1 1.6l0.7 2.5l-2.2-1.5l-2.2 1.5l0.7-2.5l-2.1-1.6l2.6-0.1zM445.1 301.8l0.9 2.5l2.6 0.1l-2.1 1.6l0.7 2.5l-2.2-1.5l-2.2 1.5l0.7-2.5l-2.1-1.6l2.6-0.1zM395.8 277.7l0.9 2.5l2.6 0.1l-2.1 1.6l0.7 2.5l-2.2-1.5l-2.2 1.5l0.7-2.5l-2.1-1.6l2.6-0.1zM413.6 296.2l0.9 2.5l2.6 0.1l-2.1 1.6l0.7 2.5l-2.2-1.5l-2.2 1.5l0.7-2.5l-2.1-1.6l2.6-0.1zM405.7 312.3l0.9 2.5l2.6 0.1l-2.1 1.6l0.7 2.5l-2.2-1.5l-2.2 1.5l0.7-2.5l-2.1-1.6l2.6-0.1zM375.2 313.4l0.9 2.5l2.6 0.1l-2.1 1.6l0.7 2.5l-2.2-1.5l-2.2 1.5l0.7-2.5l-2.1-1.6l2.6-0.1zM443.2 315.4l0.9 2.5l2.6 0.1l-2.1 1.6l0.7 2.5l-2.2-1.5l-2.2 1.5l0.7-2.5l-2.1-1.6l2.6-0.1zM442.6 311.4l0.9 2.5l2.6 0.1l-2.1 1.6l0.7 2.5l-2.2-1.5l-2.2 1.5l0.7-2.5l-2.1-1.6l2.6-0.1zM408.6 297.9l0.9 2.5l2.6 0.1l-2.1 1.6l0.7 2.5l-2.2-1.5l-2.2 1.5l0.7-2.5l-2.1-1.6l2.6-0.1zM415.9 289.3l0.9 2.5l2.6 0.1l-2.1 1.6l0.7 2.5l-2.2-1.5l-2.2 1.5l0.7-2.5l-2.1-1.6l2.6-0.1zM440.8 349.1l0.9 2.5l2.6 0.1l-2.1 1.6l0.7 2.5l-2.2-1.5l-2.2 1.5l0.7-2.5l-2.1-1.6l2.6-0.1zM443.2 324.9l0.9 2.5l2.6 0.1l-2.1 1.6l0.7 2.5l-2.2-1.5l-2.2 1.5l0.7-2.5l-2.1-1.6l2.6-0.1zM404.1 289.1l0.9 2.5l2.6 0.1l-2.1 1.6l0.7 2.5l-2.2-1.5l-2.2 1.5l0.7-2.5l-2.1-1.6l2.6-0.1zM414.6 306.1l0.9 2.5l2.6 0.1l-2.1 1.6l0.7 2.5l-2.2-1.5l-2.2 1.5l0.7-2.5l-2.1-1.6l2.6-0.1zM407.9 290.7l0.9 2.5l2.6 0.1l-2.1 1.6l0.7 2.5l-2.2-1.5l-2.2 1.5l0.7-2.5l-2.1-1.6l2.6-0.1zM403.3 286.8l0.9 2.5l2.6 0.1l-2.1 1.6l0.7 2.5l-2.2-1.5l-2.2 1.5l0.7-2.5l-2.1-1.6l2.6-0.1zM396.7 289.5l0.9 2.5l2.6 0.1l-2.1 1.6l0.7 2.5l-2.2-1.5l-2.2 1.5l0.7-2.5l-2.1-1.6l2.6-0.1zM407.7 308l0.9 2.5l2.6 0.1l-2.1 1.6l0.7 2.5l-2.2-1.5l-2.2 1.5l0.7-2.5l-2.1-1.6l2.6-0.1zM380.5 297.4l0.9 2.5l2.6 0.1l-2.1 1.6l0.7 2.5l-2.2-1.5l-2.2 1.5l0.7-2.5l-2.1-1.6l2.6-0.1zM417.1 308.7l0.9 2.5l2.6 0.1l-2.1 1.6l0.7 2.5l-2.2-1.5l-2.2 1.5l0.7-2.5l-2.1-1.6l2.6-0.1zM398.3 285.6l0.9 2.5l2.6 0.1l-2.1 1.6l0.7 2.5l-2.2-1.5l-2.2 1.5l0.7-2.5l-2.1-1.6l2.6-0.1zM425.6 314l0.9 2.5l2.6 0.1l-2.1 1.6l0.7 2.5l-2.2-1.5l-2.2 1.5l0.7-2.5l-2.1-1.6l2.6-0.1zM414.4 322.8l0.9 2.5l2.6 0.1l-2.1 1.6l0.7 2.5l-2.2-1.5l-2.2 1.5l0.7-2.5l-2.1-1.6l2.6-0.1zM406.6 312.9l0.9 2.5l2.6 0.1l-2.1 1.6l0.7 2.5l-2.2-1.5l-2.2 1.5l0.7-2.5l-2.1-1.6l2.6-0.1zM463.4 288.4l0.9 2.5l2.6 0.1l-2.1 1.6l0.7 2.5l-2.2-1.5l-2.2 1.5l0.7-2.5l-2.1-1.6l2.6-0.1zM455.9 305.5l0.9 2.5l2.6 0.1l-2.1 1.6l0.7 2.5l-2.2-1.5l-2.2 1.5l0.7-2.5l-2.1-1.6l2.6-0.1zM419.9 323.6l0.9 2.5l2.6 0.1l-2.1 1.6l0.7 2.5l-2.2-1.5l-2.2 1.5l0.7-2.5l-2.1-1.6l2.6-0.1zM391.2 322.1l0.9 2.5l2.6 0.1l-2.1 1.6l0.7 2.5l-2.2-1.5l-2.2 1.5l0.7-2.5l-2.1-1.6l2.6-0.1zM432.2 306.3l0.9 2.5l2.6 0.1l-2.1 1.6l0.7 2.5l-2.2-1.5l-2.2 1.5l0.7-2.5l-2.1-1.6l2.6-0.1zM379.4 337.8l0.9 2.5l2.6 0.1l-2.1 1.6l0.7 2.5l-2.2-1.5l-2.2 1.5l0.7-2.5l-2.1-1.6l2.6-0.1zM442.8 298.5l0.9 2.5l2.6 0.1l-2.1 1.6l0.7 2.5l-2.2-1.5l-2.2 1.5l0.7-2.5l-2.1-1.6l2.6-0.1zM445.9 294.9l0.9 2.5l2.6 0.1l-2.1 1.6l0.7 2.5l-2.2-1.5l-2.2 1.5l0.7-2.5l-2.1-1.6l2.6-0.1zM428.6 296.4l0.9 2.5l2.6 0.1l-2.1 1.6l0.7 2.5l-2.2-1.5l-2.2 1.5l0.7-2.5l-2.1-1.6l2.6-0.1zM398.3 293.9l0.9 2.5l2.6 0.1l-2.1 1.6l0.7 2.5l-2.2-1.5l-2.2 1.5l0.7-2.5l-2.1-1.6l2.6-0.1zM446 287.7l0.9 2.5l2.6 0.1l-2.1 1.6l0.7 2.5l-2.2-1.5l-2.2 1.5l0.7-2.5l-2.1-1.6l2.6-0.1zM421.1 350.3l0.9 2.5l2.6 0.1l-2.1 1.6l0.7 2.5l-2.2-1.5l-2.2 1.5l0.7-2.5l-2.1-1.6l2.6-0.1zM387.2 327.9l0.9 2.5l2.6 0.1l-2.1 1.6l0.7 2.5l-2.2-1.5l-2.2 1.5l0.7-2.5l-2.1-1.6l2.6-0.1zM455.7 318.8l0.9 2.5l2.6 0.1l-2.1 1.6l0.7 2.5l-2.2-1.5l-2.2 1.5l0.7-2.5l-2.1-1.6l2.6-0.1zM455.5 300.9l0.9 2.5l2.6 0.1l-2.1 1.6l0.7 2.5l-2.2-1.5l-2.2 1.5l0.7-2.5l-2.1-1.6l2.6-0.1zM431.7 345.8l0.9 2.5l2.6 0.1l-2.1 1.6l0.7 2.5l-2.2-1.5l-2.2 1.5l0.7-2.5l-2.1-1.6l2.6-0.1zM376.4 319.4l0.9 2.5l2.6 0.1l-2.1 1.6l0.7 2.5l-2.2-1.5l-2.2 1.5l0.7-2.5l-2.1-1.6l2.6-0.1zM426.6 322.1l0.9 2.5l2.6 0.1l-2.1 1.6l0.7 2.5l-2.2-1.5l-2.2 1.5l0.7-2.5l-2.1-1.6l2.6-0.1zM438.6 295.1l0.9 2.5l2.6 0.1l-2.1 1.6l0.7 2.5l-2.2-1.5l-2.2 1.5l0.7-2.5l-2.1-1.6l2.6-0.1zM467.8 291.1l0.9 2.5l2.6 0.1l-2.1 1.6l0.7 2.5l-2.2-1.5l-2.2 1.5l0.7-2.5l-2.1-1.6l2.6-0.1zM399.1 299.4l0.9 2.5l2.6 0.1l-2.1 1.6l0.7 2.5l-2.2-1.5l-2.2 1.5l0.7-2.5l-2.1-1.6l2.6-0.1zM409.9 328.8l0.9 2.5l2.6 0.1l-2.1 1.6l0.7 2.5l-2.2-1.5l-2.2 1.5l0.7-2.5l-2.1-1.6l2.6-0.1zM411.8 331.7l0.9 2.5l2.6 0.1l-2.1 1.6l0.7 2.5l-2.2-1.5l-2.2 1.5l0.7-2.5l-2.1-1.6l2.6-0.1zM430.6 298.3l0.9 2.5l2.6 0.1l-2.1 1.6l0.7 2.5l-2.2-1.5l-2.2 1.5l0.7-2.5l-2.1-1.6l2.6-0.1zM397.4 300.1l0.9 2.5l2.6 0.1l-2.1 1.6l0.7 2.5l-2.2-1.5l-2.2 1.5l0.7-2.5l-2.1-1.6l2.6-0.1zM462.5 284.9l0.9 2.5l2.6 0.1l-2.1 1.6l0.7 2.5l-2.2-1.5l-2.2 1.5l0.7-2.5l-2.1-1.6l2.6-0.1zM429.2 321.9l0.9 2.5l2.6 0.1l-2.1 1.6l0.7 2.5l-2.2-1.5l-2.2 1.5l0.7-2.5l-2.1-1.6l2.6-0.1zM419.8 344.3l0.9 2.5l2.6 0.1l-2.1 1.6l0.7 2.5l-2.2-1.5l-2.2 1.5l0.7-2.5l-2.1-1.6l2.6-0.1zM408 310.9l0.9 2.5l2.6 0.1l-2.1 1.6l0.7 2.5l-2.2-1.5l-2.2 1.5l0.7-2.5l-2.1-1.6l2.6-0.1zM410.2 329.5l0.9 2.5l2.6 0.1l-2.1 1.6l0.7 2.5l-2.2-1.5l-2.2 1.5l0.7-2.5l-2.1-1.6l2.6-0.1zM441.2 323.5l0.9 2.5l2.6 0.1l-2.1 1.6l0.7 2.5l-2.2-1.5l-2.2 1.5l0.7-2.5l-2.1-1.6l2.6-0.1zM406.4 319.9l0.9 2.5l2.6 0.1l-2.1 1.6l0.7 2.5l-2.2-1.5l-2.2 1.5l0.7-2.5l-2.1-1.6l2.6-0.1zM446.9 284.4l0.9 2.5l2.6 0.1l-2.1 1.6l0.7 2.5l-2.2-1.5l-2.2 1.5l0.7-2.5l-2.1-1.6l2.6-0.1zM435.4 317.1l0.9 2.5l2.6 0.1l-2.1 1.6l0.7 2.5l-2.2-1.5l-2.2 1.5l0.7-2.5l-2.1-1.6l2.6-0.1zM417.2 284l0.9 2.5l2.6 0.1l-2.1 1.6l0.7 2.5l-2.2-1.5l-2.2 1.5l0.7-2.5l-2.1-1.6l2.6-0.1zM435.5 298l0.9 2.5l2.6 0.1l-2.1 1.6l0.7 2.5l-2.2-1.5l-2.2 1.5l0.7-2.5l-2.1-1.6l2.6-0.1zM429.5 308l0.9 2.5l2.6 0.1l-2.1 1.6l0.7 2.5l-2.2-1.5l-2.2 1.5l0.7-2.5l-2.1-1.6l2.6-0.1zM445.1 304.1l0.9 2.5l2.6 0.1l-2.1 1.6l0.7 2.5l-2.2-1.5l-2.2 1.5l0.7-2.5l-2.1-1.6l2.6-0.1zM435 311.4l0.9 2.5l2.6 0.1l-2.1 1.6l0.7 2.5l-2.2-1.5l-2.2 1.5l0.7-2.5l-2.1-1.6l2.6-0.1zM384.4 323.7l0.9 2.5l2.6 0.1l-2.1 1.6l0.7 2.5l-2.2-1.5l-2.2 1.5l0.7-2.5l-2.1-1.6l2.6-0.1zM452.6 300.6l0.9 2.5l2.6 0.1l-2.1 1.6l0.7 2.5l-2.2-1.5l-2.2 1.5l0.7-2.5l-2.1-1.6l2.6-0.1zM406.4 326.2l0.9 2.5l2.6 0.1l-2.1 1.6l0.7 2.5l-2.2-1.5l-2.2 1.5l0.7-2.5l-2.1-1.6l2.6-0.1zM448.6 318l0.9 2.5l2.6 0.1l-2.1 1.6l0.7 2.5l-2.2-1.5l-2.2 1.5l0.7-2.5l-2.1-1.6l2.6-0.1zM439.3 304.4l0.9 2.5l2.6 0.1l-2.1 1.6l0.7 2.5l-2.2-1.5l-2.2 1.5l0.7-2.5l-2.1-1.6l2.6-0.1zM429.5 319.3l0.9 2.5l2.6 0.1l-2.1 1.6l0.7 2.5l-2.2-1.5l-2.2 1.5l0.7-2.5l-2.1-1.6l2.6-0.1zM451.5 308.7l0.9 2.5l2.6 0.1l-2.1 1.6l0.7 2.5l-2.2-1.5l-2.2 1.5l0.7-2.5l-2.1-1.6l2.6-0.1zM427.3 332.9l0.9 2.5l2.6 0.1l-2.1 1.6l0.7 2.5l-2.2-1.5l-2.2 1.5l0.7-2.5l-2.1-1.6l2.6-0.1zM417.1 310.8l0.9 2.5l2.6 0.1l-2.1 1.6l0.7 2.5l-2.2-1.5l-2.2 1.5l0.7-2.5l-2.1-1.6l2.6-0.1zM419.8 290.2l0.9 2.5l2.6 0.1l-2.1 1.6l0.7 2.5l-2.2-1.5l-2.2 1.5l0.7-2.5l-2.1-1.6l2.6-0.1zM397.9 325.2l0.9 2.5l2.6 0.1l-2.1 1.6l0.7 2.5l-2.2-1.5l-2.2 1.5l0.7-2.5l-2.1-1.6l2.6-0.1zM426.9 320.2l0.9 2.5l2.6 0.1l-2.1 1.6l0.7 2.5l-2.2-1.5l-2.2 1.5l0.7-2.5l-2.1-1.6l2.6-0.1zM395 314.6l0.9 2.5l2.6 0.1l-2.1 1.6l0.7 2.5l-2.2-1.5l-2.2 1.5l0.7-2.5l-2.1-1.6l2.6-0.1zM411.4 288l0.9 2.5l2.6 0.1l-2.1 1.6l0.7 2.5l-2.2-1.5l-2.2 1.5l0.7-2.5l-2.1-1.6l2.6-0.1zM429.8 284.3l0.9 2.5l2.6 0.1l-2.1 1.6l0.7 2.5l-2.2-1.5l-2.2 1.5l0.7-2.5l-2.1-1.6l2.6-0.1zM452.4 336.1l0.9 2.5l2.6 0.1l-2.1 1.6l0.7 2.5l-2.2-1.5l-2.2 1.5l0.7-2.5l-2.1-1.6l2.6-0.1zM425.7 332.6l0.9 2.5l2.6 0.1l-2.1 1.6l0.7 2.5l-2.2-1.5l-2.2 1.5l0.7-2.5l-2.1-1.6l2.6-0.1zM432.7 318.1l0.9 2.5l2.6 0.1l-2.1 1.6l0.7 2.5l-2.2-1.5l-2.2 1.5l0.7-2.5l-2.1-1.6l2.6-0.1zM394.5 299.6l0.9 2.5l2.6 0.1l-2.1 1.6l0.7 2.5l-2.2-1.5l-2.2 1.5l0.7-2.5l-2.1-1.6l2.6-0.1zM395.2 324.7l0.9 2.5l2.6 0.1l-2.1 1.6l0.7 2.5l-2.2-1.5l-2.2 1.5l0.7-2.5l-2.1-1.6l2.6-0.1zM410 337.5l0.9 2.5l2.6 0.1l-2.1 1.6l0.7 2.5l-2.2-1.5l-2.2 1.5l0.7-2.5l-2.1-1.6l2.6-0.1zM428.7 294.7l0.9 2.5l2.6 0.1l-2.1 1.6l0.7 2.5l-2.2-1.5l-2.2 1.5l0.7-2.5l-2.1-1.6l2.6-0.1zM454.4 288.6l0.9 2.5l2.6 0.1l-2.1 1.6l0.7 2.5l-2.2-1.5l-2.2 1.5l0.7-2.5l-2.1-1.6l2.6-0.1zM399.7 300.8l0.9 2.5l2.6 0.1l-2.1 1.6l0.7 2.5l-2.2-1.5l-2.2 1.5l0.7-2.5l-2.1-1.6l2.6-0.1zM408.8 315.9l0.9 2.5l2.6 0.1l-2.1 1.6l0.7 2.5l-2.2-1.5l-2.2 1.5l0.7-2.5l-2.1-1.6l2.6-0.1zM449.8 320.2l0.9 2.5l2.6 0.1l-2.1 1.6l0.7 2.5l-2.2-1.5l-2.2 1.5l0.7-2.5l-2.1-1.6l2.6-0.1zM457.3 322.6l0.9 2.5l2.6 0.1l-2.1 1.6l0.7 2.5l-2.2-1.5l-2.2 1.5l0.7-2.5l-2.1-1.6l2.6-0.1zM392.2 277.9l0.9 2.5l2.6 0.1l-2.1 1.6l0.7 2.5l-2.2-1.5l-2.2 1.5l0.7-2.5l-2.1-1.6l2.6-0.1zM416.5 340.4l0.9 2.5l2.6 0.1l-2.1 1.6l0.7 2.5l-2.2-1.5l-2.2 1.5l0.7-2.5l-2.1-1.6l2.6-0.1zM465.2 298.3l0.9 2.5l2.6 0.1l-2.1 1.6l0.7 2.5l-2.2-1.5l-2.2 1.5l0.7-2.5l-2.1-1.6l2.6-0.1zM433.2 306.6l0.9 2.5l2.6 0.1l-2.1 1.6l0.7 2.5l-2.2-1.5l-2.2 1.5l0.7-2.5l-2.1-1.6l2.6-0.1zM404.6 344.3l0.9 2.5l2.6 0.1l-2.1 1.6l0.7 2.5l-2.2-1.5l-2.2 1.5l0.7-2.5l-2.1-1.6l2.6-0.1zM410.5 321.3l0.9 2.5l2.6 0.1l-2.1 1.6l0.7 2.5l-2.2-1.5l-2.2 1.5l0.7-2.5l-2.1-1.6l2.6-0.1zM449.7 319.1l0.9 2.5l2.6 0.1l-2.1 1.6l0.7 2.5l-2.2-1.5l-2.2 1.5l0.7-2.5l-2.1-1.6l2.6-0.1zM422.9 303.4l0.9 2.5l2.6 0.1l-2.1 1.6l0.7 2.5l-2.2-1.5l-2.2 1.5l0.7-2.5l-2.1-1.6l2.6-0.1zM415.3 335.4l0.9 2.5l2.6 0.1l-2.1 1.6l0.7 2.5l-2.2-1.5l-2.2 1.5l0.7-2.5l-2.1-1.6l2.6-0.1zM375.9 311.4l0.9 2.5l2.6 0.1l-2.1 1.6l0.7 2.5l-2.2-1.5l-2.2 1.5l0.7-2.5l-2.1-1.6l2.6-0.1zM396.5 301.4l0.9 2.5l2.6 0.1l-2.1 1.6l0.7 2.5l-2.2-1.5l-2.2 1.5l0.7-2.5l-2.1-1.6l2.6-0.1zM412.8 315.1l0.9 2.5l2.6 0.1l-2.1 1.6l0.7 2.5l-2.2-1.5l-2.2 1.5l0.7-2.5l-2.1-1.6l2.6-0.1zM446.9 310.5l0.9 2.5l2.6 0.1l-2.1 1.6l0.7 2.5l-2.2-1.5l-2.2 1.5l0.7-2.5l-2.1-1.6l2.6-0.1zM441 327.8l0.9 2.5l2.6 0.1l-2.1 1.6l0.7 2.5l-2.2-1.5l-2.2 1.5l0.7-2.5l-2.1-1.6l2.6-0.1zM458.4 315.8l0.9 2.5l2.6 0.1l-2.1 1.6l0.7 2.5l-2.2-1.5l-2.2 1.5l0.7-2.5l-2.1-1.6l2.6-0.1zM405.3 322.8l0.9 2.5l2.6 0.1l-2.1 1.6l0.7 2.5l-2.2-1.5l-2.2 1.5l0.7-2.5l-2.1-1.6l2.6-0.1zM405.9 317.2l0.9 2.5l2.6 0.1l-2.1 1.6l0.7 2.5l-2.2-1.5l-2.2 1.5l0.7-2.5l-2.1-1.6l2.6-0.1zM393.3 289.3l0.9 2.5l2.6 0.1l-2.1 1.6l0.7 2.5l-2.2-1.5l-2.2 1.5l0.7-2.5l-2.1-1.6l2.6-0.1zM440.6 334.1l0.9 2.5l2.6 0.1l-2.1 1.6l0.7 2.5l-2.2-1.5l-2.2 1.5l0.7-2.5l-2.1-1.6l2.6-0.1zM453.2 323.2l0.9 2.5l2.6 0.1l-2.1 1.6l0.7 2.5l-2.2-1.5l-2.2 1.5l0.7-2.5l-2.1-1.6l2.6-0.1zM453.3 297.6l0.9 2.5l2.6 0.1l-2.1 1.6l0.7 2.5l-2.2-1.5l-2.2 1.5l0.7-2.5l-2.1-1.6l2.6-0.1zM427.9 314.6l0.9 2.5l2.6 0.1l-2.1 1.6l0.7 2.5l-2.2-1.5l-2.2 1.5l0.7-2.5l-2.1-1.6l2.6-0.1zM444.6 327.5l0.9 2.5l2.6 0.1l-2.1 1.6l0.7 2.5l-2.2-1.5l-2.2 1.5l0.7-2.5l-2.1-1.6l2.6-0.1zM424.7 326.4l0.9 2.5l2.6 0.1l-2.1 1.6l0.7 2.5l-2.2-1.5l-2.2 1.5l0.7-2.5l-2.1-1.6l2.6-0.1zM433.4 315.2l0.9 2.5l2.6 0.1l-2.1 1.6l0.7 2.5l-2.2-1.5l-2.2 1.5l0.7-2.5l-2.1-1.6l2.6-0.1zM420.5 322l0.9 2.5l2.6 0.1l-2.1 1.6l0.7 2.5l-2.2-1.5l-2.2 1.5l0.7-2.5l-2.1-1.6l2.6-0.1zM435.7 326.9l0.9 2.5l2.6 0.1l-2.1 1.6l0.7 2.5l-2.2-1.5l-2.2 1.5l0.7-2.5l-2.1-1.6l2.6-0.1zM438 331.7l0.9 2.5l2.6 0.1l-2.1 1.6l0.7 2.5l-2.2-1.5l-2.2 1.5l0.7-2.5l-2.1-1.6l2.6-0.1zM451.6 291l0.9 2.5l2.6 0.1l-2.1 1.6l0.7 2.5l-2.2-1.5l-2.2 1.5l0.7-2.5l-2.1-1.6l2.6-0.1zM429.6 322.2l0.9 2.5l2.6 0.1l-2.1 1.6l0.7 2.5l-2.2-1.5l-2.2 1.5l0.7-2.5l-2.1-1.6l2.6-0.1zM443.1 319.1l0.9 2.5l2.6 0.1l-2.1 1.6l0.7 2.5l-2.2-1.5l-2.2 1.5l0.7-2.5l-2.1-1.6l2.6-0.1zM420.4 299.4l0.9 2.5l2.6 0.1l-2.1 1.6l0.7 2.5l-2.2-1.5l-2.2 1.5l0.7-2.5l-2.1-1.6l2.6-0.1zM393.5 301l0.9 2.5l2.6 0.1l-2.1 1.6l0.7 2.5l-2.2-1.5l-2.2 1.5l0.7-2.5l-2.1-1.6l2.6-0.1zM426.1 294.2l0.9 2.5l2.6 0.1l-2.1 1.6l0.7 2.5l-2.2-1.5l-2.2 1.5l0.7-2.5l-2.1-1.6l2.6-0.1zM405.5 299.1l0.9 2.5l2.6 0.1l-2.1 1.6l0.7 2.5l-2.2-1.5l-2.2 1.5l0.7-2.5l-2.1-1.6l2.6-0.1zM427.3 296.3l0.9 2.5l2.6 0.1l-2.1 1.6l0.7 2.5l-2.2-1.5l-2.2 1.5l0.7-2.5l-2.1-1.6l2.6-0.1zM460.5 303.2l0.9 2.5l2.6 0.1l-2.1 1.6l0.7 2.5l-2.2-1.5l-2.2 1.5l0.7-2.5l-2.1-1.6l2.6-0.1zM408.2 303.7l0.9 2.5l2.6 0.1l-2.1 1.6l0.7 2.5l-2.2-1.5l-2.2 1.5l0.7-2.5l-2.1-1.6l2.6-0.1zM449.4 298l0.9 2.5l2.6 0.1l-2.1 1.6l0.7 2.5l-2.2-1.5l-2.2 1.5l0.7-2.5l-2.1-1.6l2.6-0.1zM448.1 309.8l0.9 2.5l2.6 0.1l-2.1 1.6l0.7 2.5l-2.2-1.5l-2.2 1.5l0.7-2.5l-2.1-1.6l2.6-0.1zM395.7 300.7l0.9 2.5l2.6 0.1l-2.1 1.6l0.7 2.5l-2.2-1.5l-2.2 1.5l0.7-2.5l-2.1-1.6l2.6-0.1zM438.5 316l0.9 2.5l2.6 0.1l-2.1 1.6l0.7 2.5l-2.2-1.5l-2.2 1.5l0.7-2.5l-2.1-1.6l2.6-0.1zM450.6 295.7l0.9 2.5l2.6 0.1l-2.1 1.6l0.7 2.5l-2.2-1.5l-2.2 1.5l0.7-2.5l-2.1-1.6l2.6-0.1zM416.2 297.2l0.9 2.5l2.6 0.1l-2.1 1.6l0.7 2.5l-2.2-1.5l-2.2 1.5l0.7-2.5l-2.1-1.6l2.6-0.1zM411.9 300.7l0.9 2.5l2.6 0.1l-2.1 1.6l0.7 2.5l-2.2-1.5l-2.2 1.5l0.7-2.5l-2.1-1.6l2.6-0.1zM394 307.9l0.9 2.5l2.6 0.1l-2.1 1.6l0.7 2.5l-2.2-1.5l-2.2 1.5l0.7-2.5l-2.1-1.6l2.6-0.1zM403 347.4l0.9 2.5l2.6 0.1l-2.1 1.6l0.7 2.5l-2.2-1.5l-2.2 1.5l0.7-2.5l-2.1-1.6l2.6-0.1zM431.6 303.4l0.9 2.5l2.6 0.1l-2.1 1.6l0.7 2.5l-2.2-1.5l-2.2 1.5l0.7-2.5l-2.1-1.6l2.6-0.1zM404.5 290.7l0.9 2.5l2.6 0.1l-2.1 1.6l0.7 2.5l-2.2-1.5l-2.2 1.5l0.7-2.5l-2.1-1.6l2.6-0.1zM411.5 314.2l0.9 2.5l2.6 0.1l-2.1 1.6l0.7 2.5l-2.2-1.5l-2.2 1.5l0.7-2.5l-2.1-1.6l2.6-0.1zM441.8 300.6l0.9 2.5l2.6 0.1l-2.1 1.6l0.7 2.5l-2.2-1.5l-2.2 1.5l0.7-2.5l-2.1-1.6l2.6-0.1zM395.7 339.4l0.9 2.5l2.6 0.1l-2.1 1.6l0.7 2.5l-2.2-1.5l-2.2 1.5l0.7-2.5l-2.1-1.6l2.6-0.1zM414.6 284.6l0.9 2.5l2.6 0.1l-2.1 1.6l0.7 2.5l-2.2-1.5l-2.2 1.5l0.7-2.5l-2.1-1.6l2.6-0.1zM453 329.5l0.9 2.5l2.6 0.1l-2.1 1.6l0.7 2.5l-2.2-1.5l-2.2 1.5l0.7-2.5l-2.1-1.6l2.6-0.1zM387.6 308.9l0.9 2.5l2.6 0.1l-2.1 1.6l0.7 2.5l-2.2-1.5l-2.2 1.5l0.7-2.5l-2.1-1.6l2.6-0.1zM418.2 312l0.9 2.5l2.6 0.1l-2.1 1.6l0.7 2.5l-2.2-1.5l-2.2 1.5l0.7-2.5l-2.1-1.6l2.6-0.1zM438.6 311.4l0.9 2.5l2.6 0.1l-2.1 1.6l0.7 2.5l-2.2-1.5l-2.2 1.5l0.7-2.5l-2.1-1.6l2.6-0.1zM380 332.7l0.9 2.5l2.6 0.1l-2.1 1.6l0.7 2.5l-2.2-1.5l-2.2 1.5l0.7-2.5l-2.1-1.6l2.6-0.1zM420.5 296.8l0.9 2.5l2.6 0.1l-2.1 1.6l0.7 2.5l-2.2-1.5l-2.2 1.5l0.7-2.5l-2.1-1.6l2.6-0.1zM397.9 287.8l0.9 2.5l2.6 0.1l-2.1 1.6l0.7 2.5l-2.2-1.5l-2.2 1.5l0.7-2.5l-2.1-1.6l2.6-0.1zM448.6 328.4l0.9 2.5l2.6 0.1l-2.1 1.6l0.7 2.5l-2.2-1.5l-2.2 1.5l0.7-2.5l-2.1-1.6l2.6-0.1zM386.2 320.9l0.9 2.5l2.6 0.1l-2.1 1.6l0.7 2.5l-2.2-1.5l-2.2 1.5l0.7-2.5l-2.1-1.6l2.6-0.1zM380.7 336.8l0.9 2.5l2.6 0.1l-2.1 1.6l0.7 2.5l-2.2-1.5l-2.2 1.5l0.7-2.5l-2.1-1.6l2.6-0.1zM437 326.6l0.9 2.5l2.6 0.1l-2.1 1.6l0.7 2.5l-2.2-1.5l-2.2 1.5l0.7-2.5l-2.1-1.6l2.6-0.1zM413 318l0.9 2.5l2.6 0.1l-2.1 1.6l0.7 2.5l-2.2-1.5l-2.2 1.5l0.7-2.5l-2.1-1.6l2.6-0.1zM408.9 295.4l0.9 2.5l2.6 0.1l-2.1 1.6l0.7 2.5l-2.2-1.5l-2.2 1.5l0.7-2.5l-2.1-1.6l2.6-0.1zM415.4 345.7l0.9 2.5l2.6 0.1l-2.1 1.6l0.7 2.5l-2.2-1.5l-2.2 1.5l0.7-2.5l-2.1-1.6l2.6-0.1zM421.2 289.9l0.9 2.5l2.6 0.1l-2.1 1.6l0.7 2.5l-2.2-1.5l-2.2 1.5l0.7-2.5l-2.1-1.6l2.6-0.1zM458.1 306.8l0.9 2.5l2.6 0.1l-2.1 1.6l0.7 2.5l-2.2-1.5l-2.2 1.5l0.7-2.5l-2.1-1.6l2.6-0.1zM445.6 305.6l0.9 2.5l2.6 0.1l-2.1 1.6l0.7 2.5l-2.2-1.5l-2.2 1.5l0.7-2.5l-2.1-1.6l2.6-0.1zM413.2 293.2l0.9 2.5l2.6 0.1l-2.1 1.6l0.7 2.5l-2.2-1.5l-2.2 1.5l0.7-2.5l-2.1-1.6l2.6-0.1zM414.9 278.6l0.9 2.5l2.6 0.1l-2.1 1.6l0.7 2.5l-2.2-1.5l-2.2 1.5l0.7-2.5l-2.1-1.6l2.6-0.1zM448.8 327.1l0.9 2.5l2.6 0.1l-2.1 1.6l0.7 2.5l-2.2-1.5l-2.2 1.5l0.7-2.5l-2.1-1.6l2.6-0.1zM392.8 296.6l0.9 2.5l2.6 0.1l-2.1 1.6l0.7 2.5l-2.2-1.5l-2.2 1.5l0.7-2.5l-2.1-1.6l2.6-0.1zM430.7 307.4l0.9 2.5l2.6 0.1l-2.1 1.6l0.7 2.5l-2.2-1.5l-2.2 1.5l0.7-2.5l-2.1-1.6l2.6-0.1zM408.8 328.8l0.9 2.5l2.6 0.1l-2.1 1.6l0.7 2.5l-2.2-1.5l-2.2 1.5l0.7-2.5l-2.1-1.6l2.6-0.1zM370.4 319.3l0.9 2.5l2.6 0.1l-2.1 1.6l0.7 2.5l-2.2-1.5l-2.2 1.5l0.7-2.5l-2.1-1.6l2.6-0.1zM445.6 323.5l0.9 2.5l2.6 0.1l-2.1 1.6l0.7 2.5l-2.2-1.5l-2.2 1.5l0.7-2.5l-2.1-1.6l2.6-0.1zM439.9 296l0.9 2.5l2.6 0.1l-2.1 1.6l0.7 2.5l-2.2-1.5l-2.2 1.5l0.7-2.5l-2.1-1.6l2.6-0.1zM407.1 297.9l0.9 2.5l2.6 0.1l-2.1 1.6l0.7 2.5l-2.2-1.5l-2.2 1.5l0.7-2.5l-2.1-1.6l2.6-0.1zM409.3 314.3l0.9 2.5l2.6 0.1l-2.1 1.6l0.7 2.5l-2.2-1.5l-2.2 1.5l0.7-2.5l-2.1-1.6l2.6-0.1zM418.9 301.8l0.9 2.5l2.6 0.1l-2.1 1.6l0.7 2.5l-2.2-1.5l-2.2 1.5l0.7-2.5l-2.1-1.6l2.6-0.1zM397.6 337.5l0.9 2.5l2.6 0.1l-2.1 1.6l0.7 2.5l-2.2-1.5l-2.2 1.5l0.7-2.5l-2.1-1.6l2.6-0.1zM451.8 277.1l0.9 2.5l2.6 0.1l-2.1 1.6l0.7 2.5l-2.2-1.5l-2.2 1.5l0.7-2.5l-2.1-1.6l2.6-0.1zM411.7 296.8l0.9 2.5l2.6 0.1l-2.1 1.6l0.7 2.5l-2.2-1.5l-2.2 1.5l0.7-2.5l-2.1-1.6l2.6-0.1zM442 327.3l0.9 2.5l2.6 0.1l-2.1 1.6l0.7 2.5l-2.2-1.5l-2.2 1.5l0.7-2.5l-2.1-1.6l2.6-0.1zM470 308.6l0.9 2.5l2.6 0.1l-2.1 1.6l0.7 2.5l-2.2-1.5l-2.2 1.5l0.7-2.5l-2.1-1.6l2.6-0.1zM405.6 323.7l0.9 2.5l2.6 0.1l-2.1 1.6l0.7 2.5l-2.2-1.5l-2.2 1.5l0.7-2.5l-2.1-1.6l2.6-0.1zM400.6 316.9l0.9 2.5l2.6 0.1l-2.1 1.6l0.7 2.5l-2.2-1.5l-2.2 1.5l0.7-2.5l-2.1-1.6l2.6-0.1zM423 326.6l0.9 2.5l2.6 0.1l-2.1 1.6l0.7 2.5l-2.2-1.5l-2.2 1.5l0.7-2.5l-2.1-1.6l2.6-0.1zM445.7 302l0.9 2.5l2.6 0.1l-2.1 1.6l0.7 2.5l-2.2-1.5l-2.2 1.5l0.7-2.5l-2.1-1.6l2.6-0.1zM453.8 330.6l0.9 2.5l2.6 0.1l-2.1 1.6l0.7 2.5l-2.2-1.5l-2.2 1.5l0.7-2.5l-2.1-1.6l2.6-0.1zM411 277.2l0.9 2.5l2.6 0.1l-2.1 1.6l0.7 2.5l-2.2-1.5l-2.2 1.5l0.7-2.5l-2.1-1.6l2.6-0.1zM461.8 296.5l0.9 2.5l2.6 0.1l-2.1 1.6l0.7 2.5l-2.2-1.5l-2.2 1.5l0.7-2.5l-2.1-1.6l2.6-0.1zM405 293.9l0.9 2.5l2.6 0.1l-2.1 1.6l0.7 2.5l-2.2-1.5l-2.2 1.5l0.7-2.5l-2.1-1.6l2.6-0.1zM453 310.1l0.9 2.5l2.6 0.1l-2.1 1.6l0.7 2.5l-2.2-1.5l-2.2 1.5l0.7-2.5l-2.1-1.6l2.6-0.1zM414.2 352.9l0.9 2.5l2.6 0.1l-2.1 1.6l0.7 2.5l-2.2-1.5l-2.2 1.5l0.7-2.5l-2.1-1.6l2.6-0.1zM388.8 374.1l0.9 2.5l2.6 0.1l-2.1 1.6l0.7 2.5l-2.2-1.5l-2.2 1.5l0.7-2.5l-2.1-1.6l2.6-0.1zM491.7 309.9l0.9 2.5l2.6 0.1l-2.1 1.6l0.7 2.5l-2.2-1.5l-2.2 1.5l0.7-2.5l-2.1-1.6l2.6-0.1zM355.9 278.4l0.9 2.5l2.6 0.1l-2.1 1.6l0.7 2.5l-2.2-1.5l-2.2 1.5l0.7-2.5l-2.1-1.6l2.6-0.1zM357 279.7l0.9 2.5l2.6 0.1l-2.1 1.6l0.7 2.5l-2.2-1.5l-2.2 1.5l0.7-2.5l-2.1-1.6l2.6-0.1zM435.5 273.9l0.9 2.5l2.6 0.1l-2.1 1.6l0.7 2.5l-2.2-1.5l-2.2 1.5l0.7-2.5l-2.1-1.6l2.6-0.1zM412.1 279.7l0.9 2.5l2.6 0.1l-2.1 1.6l0.7 2.5l-2.2-1.5l-2.2 1.5l0.7-2.5l-2.1-1.6l2.6-0.1zM413.2 367.7l0.9 2.5l2.6 0.1l-2.1 1.6l0.7 2.5l-2.2-1.5l-2.2 1.5l0.7-2.5l-2.1-1.6l2.6-0.1zM416.9 361.2l0.9 2.5l2.6 0.1l-2.1 1.6l0.7 2.5l-2.2-1.5l-2.2 1.5l0.7-2.5l-2.1-1.6l2.6-0.1zM376.1 366.4l0.9 2.5l2.6 0.1l-2.1 1.6l0.7 2.5l-2.2-1.5l-2.2 1.5l0.7-2.5l-2.1-1.6l2.6-0.1zM386.7 367.7l0.9 2.5l2.6 0.1l-2.1 1.6l0.7 2.5l-2.2-1.5l-2.2 1.5l0.7-2.5l-2.1-1.6l2.6-0.1zM369.2 360l0.9 2.5l2.6 0.1l-2.1 1.6l0.7 2.5l-2.2-1.5l-2.2 1.5l0.7-2.5l-2.1-1.6l2.6-0.1zM439.7 360.6l0.9 2.5l2.6 0.1l-2.1 1.6l0.7 2.5l-2.2-1.5l-2.2 1.5l0.7-2.5l-2.1-1.6l2.6-0.1zM390.9 363.8l0.9 2.5l2.6 0.1l-2.1 1.6l0.7 2.5l-2.2-1.5l-2.2 1.5l0.7-2.5l-2.1-1.6l2.6-0.1zM405.8 361.2l0.9 2.5l2.6 0.1l-2.1 1.6l0.7 2.5l-2.2-1.5l-2.2 1.5l0.7-2.5l-2.1-1.6l2.6-0.1zM428 349.7l0.9 2.5l2.6 0.1l-2.1 1.6l0.7 2.5l-2.2-1.5l-2.2 1.5l0.7-2.5l-2.1-1.6l2.6-0.1zM368.6 348.4l0.9 2.5l2.6 0.1l-2.1 1.6l0.7 2.5l-2.2-1.5l-2.2 1.5l0.7-2.5l-2.1-1.6l2.6-0.1zM408.9 269.4l0.9 2.5l2.6 0.1l-2.1 1.6l0.7 2.5l-2.2-1.5l-2.2 1.5l0.7-2.5l-2.1-1.6l2.6-0.1zM387.7 271.4l0.9 2.5l2.6 0.1l-2.1 1.6l0.7 2.5l-2.2-1.5l-2.2 1.5l0.7-2.5l-2.1-1.6l2.6-0.1zM400.5 301.5l0.9 2.5l2.6 0.1l-2.1 1.6l0.7 2.5l-2.2-1.5l-2.2 1.5l0.7-2.5l-2.1-1.6l2.6-0.1zM397.3 308.6l0.9 2.5l2.6 0.1l-2.1 1.6l0.7 2.5l-2.2-1.5l-2.2 1.5l0.7-2.5l-2.1-1.6l2.6-0.1zM440.8 322.7l0.9 2.5l2.6 0.1l-2.1 1.6l0.7 2.5l-2.2-1.5l-2.2 1.5l0.7-2.5l-2.1-1.6l2.6-0.1zM377.1 345.2l0.9 2.5l2.6 0.1l-2.1 1.6l0.7 2.5l-2.2-1.5l-2.2 1.5l0.7-2.5l-2.1-1.6l2.6-0.1zM376.1 351.6l0.9 2.5l2.6 0.1l-2.1 1.6l0.7 2.5l-2.2-1.5l-2.2 1.5l0.7-2.5l-2.1-1.6l2.6-0.1zM484.2 297.1l0.9 2.5l2.6 0.1l-2.1 1.6l0.7 2.5l-2.2-1.5l-2.2 1.5l0.7-2.5l-2.1-1.6l2.6-0.1zM473.6 303.5l0.9 2.5l2.6 0.1l-2.1 1.6l0.7 2.5l-2.2-1.5l-2.2 1.5l0.7-2.5l-2.1-1.6l2.6-0.1zM475.8 316.3l0.9 2.5l2.6 0.1l-2.1 1.6l0.7 2.5l-2.2-1.5l-2.2 1.5l0.7-2.5l-2.1-1.6l2.6-0.1zM472.6 325.9l0.9 2.5l2.6 0.1l-2.1 1.6l0.7 2.5l-2.2-1.5l-2.2 1.5l0.7-2.5l-2.1-1.6l2.6-0.1zM483.2 333.6l0.9 2.5l2.6 0.1l-2.1 1.6l0.7 2.5l-2.2-1.5l-2.2 1.5l0.7-2.5l-2.1-1.6l2.6-0.1zM450.3 336.9l0.9 2.5l2.6 0.1l-2.1 1.6l0.7 2.5l-2.2-1.5l-2.2 1.5l0.7-2.5l-2.1-1.6l2.6-0.1zM450.3 344.6l0.9 2.5l2.6 0.1l-2.1 1.6l0.7 2.5l-2.2-1.5l-2.2 1.5l0.7-2.5l-2.1-1.6l2.6-0.1zM364.4 295.1l0.9 2.5l2.6 0.1l-2.1 1.6l0.7 2.5l-2.2-1.5l-2.2 1.5l0.7-2.5l-2.1-1.6l2.6-0.1zM364.4 342l0.9 2.5l2.6 0.1l-2.1 1.6l0.7 2.5l-2.2-1.5l-2.2 1.5l0.7-2.5l-2.1-1.6l2.6-0.1zM376.1 326.6l0.9 2.5l2.6 0.1l-2.1 1.6l0.7 2.5l-2.2-1.5l-2.2 1.5l0.7-2.5l-2.1-1.6l2.6-0.1zM377.1 331.1l0.9 2.5l2.6 0.1l-2.1 1.6l0.7 2.5l-2.2-1.5l-2.2 1.5l0.7-2.5l-2.1-1.6l2.6-0.1zM380.3 338.8l0.9 2.5l2.6 0.1l-2.1 1.6l0.7 2.5l-2.2-1.5l-2.2 1.5l0.7-2.5l-2.1-1.6l2.6-0.1zM431.2 275.9l0.9 2.5l2.6 0.1l-2.1 1.6l0.7 2.5l-2.2-1.5l-2.2 1.5l0.7-2.5l-2.1-1.6l2.6-0.1zM429.1 280.4l0.9 2.5l2.6 0.1l-2.1 1.6l0.7 2.5l-2.2-1.5l-2.2 1.5l0.7-2.5l-2.1-1.6l2.6-0.1zM399.4 281.6l0.9 2.5l2.6 0.1l-2.1 1.6l0.7 2.5l-2.2-1.5l-2.2 1.5l0.7-2.5l-2.1-1.6l2.6-0.1zM388.8 284.9l0.9 2.5l2.6 0.1l-2.1 1.6l0.7 2.5l-2.2-1.5l-2.2 1.5l0.7-2.5l-2.1-1.6l2.6-0.1zM418.5 278.4l0.9 2.5l2.6 0.1l-2.1 1.6l0.7 2.5l-2.2-1.5l-2.2 1.5l0.7-2.5l-2.1-1.6l2.6-0.1zM448.2 283.6l0.9 2.5l2.6 0.1l-2.1 1.6l0.7 2.5l-2.2-1.5l-2.2 1.5l0.7-2.5l-2.1-1.6l2.6-0.1zM419.5 349.7l0.9 2.5l2.6 0.1l-2.1 1.6l0.7 2.5l-2.2-1.5l-2.2 1.5l0.7-2.5l-2.1-1.6l2.6-0.1zM398.3 343.3l0.9 2.5l2.6 0.1l-2.1 1.6l0.7 2.5l-2.2-1.5l-2.2 1.5l0.7-2.5l-2.1-1.6l2.6-0.1zM386.7 342l0.9 2.5l2.6 0.1l-2.1 1.6l0.7 2.5l-2.2-1.5l-2.2 1.5l0.7-2.5l-2.1-1.6l2.6-0.1z"/>
<path d="M324.1 237.4H536.2V397.2H324.1Z" fill="none" stroke="#3c3c3c" stroke-width="0.95"/>
<path d="M377.1 397.2v-2.2M377.1 237.4v2.2M430.2 397.2v-2.2M430.2 237.4v2.2M483.2 397.2v-2.2M483.2 237.4v2.2M324.1 365h2.2M536.2 365h-2.2M324.1 332.9h2.2M536.2 332.9h-2.2M324.1 300.8h2.2M536.2 300.8h-2.2M324.1 268.7h2.2M536.2 268.7h-2.2" fill="none" stroke="#3c3c3c" stroke-width="0.8"/>
<text x="320.85" y="411.40" font-size="12.9" textLength="5.70" lengthAdjust="spacingAndGlyphs">5</text>
<text x="370.83" y="411.40" font-size="12.9" textLength="11.80" lengthAdjust="spacingAndGlyphs">10</text>
<text x="423.85" y="411.40" font-size="12.9" textLength="11.80" lengthAdjust="spacingAndGlyphs">15</text>
<text x="476.88" y="411.40" font-size="12.9" textLength="11.80" lengthAdjust="spacingAndGlyphs">20</text>
<text x="529.90" y="411.40" font-size="12.9" textLength="11.80" lengthAdjust="spacingAndGlyphs">25</text>
<text x="309.40" y="400.50" font-size="12.9" textLength="11.80" lengthAdjust="spacingAndGlyphs">50</text>
<text x="309.40" y="368.40" font-size="12.9" textLength="11.80" lengthAdjust="spacingAndGlyphs">55</text>
<text x="309.40" y="336.30" font-size="12.9" textLength="11.80" lengthAdjust="spacingAndGlyphs">60</text>
<text x="309.40" y="304.20" font-size="12.9" textLength="11.80" lengthAdjust="spacingAndGlyphs">65</text>
<text x="309.40" y="272.10" font-size="12.9" textLength="11.80" lengthAdjust="spacingAndGlyphs">70</text>
<text x="309.40" y="240.00" font-size="12.9" textLength="11.80" lengthAdjust="spacingAndGlyphs">75</text>
<text x="424.50" y="433.20" font-size="14" textLength="7.00" lengthAdjust="spacingAndGlyphs">b</text>
<text x="431.32" y="425.90" font-size="9.5" textLength="4.75" lengthAdjust="spacingAndGlyphs">*</text>
<text x="297.90" y="319.80" font-size="14" textLength="6.80" lengthAdjust="spacingAndGlyphs" transform="rotate(-90 301.30 319.80)">L</text>
<text x="291.23" y="314.50" font-size="9.5" textLength="4.75" lengthAdjust="spacingAndGlyphs" transform="rotate(-90 293.60 314.50)">*</text>
<text x="419.85" y="446.90" font-size="12.0" textLength="15.30" lengthAdjust="spacingAndGlyphs">(d)</text>
</svg>
</body></html>
